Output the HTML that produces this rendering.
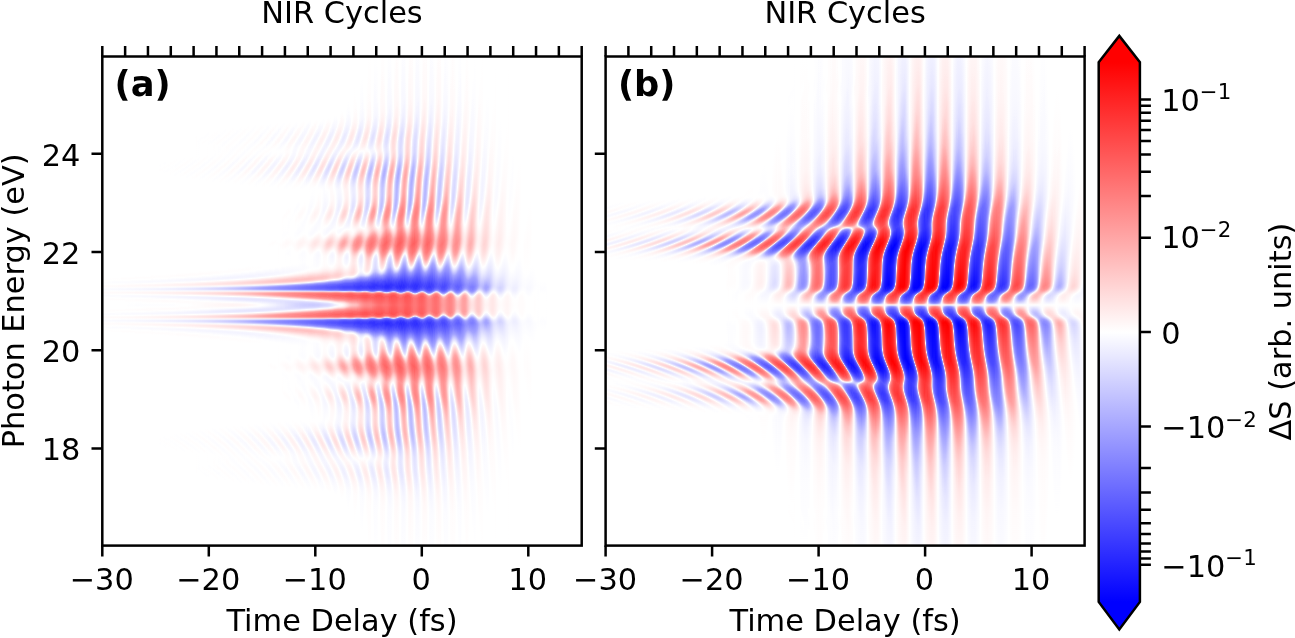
<!DOCTYPE html><html><head><meta charset="utf-8"><title>Transient absorption figure</title><style>html,body{margin:0;padding:0;background:#fff}#w{position:relative;width:1295px;height:638px;overflow:hidden;background:#fff}.p{position:absolute;top:57px;width:479px;height:489px;display:flex;background:#fff;overflow:hidden}.p *{display:block;position:relative;flex:0 0 1px;width:1px;height:489px;--g:#fff 0,#fff 9q}.p b{flex-basis:2px;width:2px}.p u{flex-basis:3px;width:3px}.p s{flex-basis:4px;width:4px}.p *::before{content:"";position:absolute;left:0;top:0;width:100%;height:248px;background:linear-gradient(to top,var(--g))}.p *::after{content:"";position:absolute;left:0;top:248px;width:100%;height:241px;background:linear-gradient(var(--g))}#pb *::after{filter:url(#sw)}.o{position:absolute;width:479px}</style></head><body><div id="w"><svg width="0" height="0" style="position:absolute"><filter id="sw" color-interpolation-filters="sRGB" x="0" y="0" width="1" height="1"><feColorMatrix type="matrix" values="0 0 1 0 0 0 1 0 0 0 1 0 0 0 0 0 0 0 1 0"/></filter></svg><div class="p" id="pa" style="left:103px"><u style="--g:#fff 0,#fff 5q,#fffefe 6q,#fff 8q,#fcfcff 10q,#fefeff 11q,#fffbfb 13q,#fff 15q,#fbfbff 16q,#fbfbff 17q,#fff 18q,#fffbfb 20q,#fff 22q,#fdfdff 23q,#fff 25q,#fffefe 27q,#fff 28q,#fff 263q"></u><b style="--g:#fff 0,#fff 5q,#fffdfd 6q,#fff 8q,#fcfcff 10q,#fefeff 11q,#fffbfb 13q,#fff 15q,#fbfbff 16q,#fbfbff 17q,#fefeff 18q,#fffbfb 20q,#fff 22q,#fdfdff 24q,#fff 25q,#fffefe 27q,#fff 29q,#fff 263q"></b><b style="--g:#fff 0,#fff 5q,#fffdfd 6q,#fff 8q,#fcfcff 10q,#fefeff 11q,#fffbfb 13q,#fff 15q,#fbfbff 16q,#fbfbff 17q,#fefeff 18q,#fffbfb 20q,#fff 22q,#fdfdff 24q,#fff 26q,#fffefe 27q,#fff 29q,#fff 263q"></b><b style="--g:#fff 0,#fff 4q,#fffdfd 6q,#fff 8q,#fcfcff 9q,#fcfcff 10q,#fff 11q,#fffafa 13q,#fff 15q,#fbfbff 16q,#fafaff 17q,#fefeff 18q,#fffbfb 20q,#fff 22q,#fdfdff 24q,#fff 26q,#fffefe 27q,#fff 29q,#fff 263q"></b><u style="--g:#fff 0,#fff 4q,#fffdfd 6q,#fff 8q,#fcfcff 9q,#fcfcff 10q,#fff 11q,#fffafa 13q,#fff 15q,#fafaff 16q,#fafaff 17q,#fefeff 18q,#fffbfb 20q,#fff 22q,#fcfcff 24q,#fff 26q,#fffefe 28q,#fff 29q,#fff 263q"></u><u style="--g:#fff 0,#fff 4q,#fffdfd 6q,#fff 7q,#fcfcff 10q,#fff 11q,#fffafa 13q,#fff 15q,#fafaff 16q,#fafaff 17q,#fdfdff 18q,#fffbfb 20q,#fff 22q,#fcfcff 24q,#fff 26q,#fffefe 28q,#fff 29q,#fff 263q"></u><u style="--g:#fff 0,#fff 4q,#fffdfd 6q,#fff 7q,#fcfcff 10q,#fff 11q,#fffafa 13q,#fefeff 15q,#fafaff 16q,#f9f9ff 17q,#fdfdff 18q,#fffafa 20q,#fffcfc 21q,#fff 22q,#fcfcff 24q,#fff 26q,#fffefe 28q,#fff 29q,#fff 263q"></u><s style="--g:#fff 0,#fff 4q,#fffdfd 6q,#fff 7q,#fbfbff 9q,#fcfcff 10q,#fff 11q,#fff9f9 13q,#fefeff 15q,#f9f9ff 16q,#f9f9ff 17q,#fdfdff 18q,#fffafa 20q,#fffbfb 21q,#fff 22q,#fcfcff 24q,#fff 26q,#fffdfd 28q,#fff 30q,#fff 263q"></s><b style="--g:#fff 0,#fff 3q,#fffdfd 5q,#fff 7q,#fbfbff 9q,#fbfbff 10q,#fff 11q,#fff9f9 13q,#fefeff 15q,#f9f9ff 16q,#f9f9ff 17q,#fdfdff 18q,#fffcfc 19q,#fffafa 20q,#fffbfb 21q,#fffefe 22q,#fcfcff 24q,#fff 26q,#fffdfd 28q,#fff 30q,#fff 263q"></b><s style="--g:#fefeff 0,#fff 3q,#fffdfd 5q,#fff 7q,#fbfbff 9q,#fbfbff 10q,#fff 11q,#fff8f8 13q,#fefeff 15q,#f9f9ff 16q,#f8f8ff 17q,#fcfcff 18q,#fffcfc 19q,#fffafa 20q,#fffafa 21q,#fffefe 22q,#fcfcff 24q,#fff 26q,#fffdfd 28q,#fff 30q,#fff 263q"></s><s style="--g:#fefeff 0,#fff 3q,#fffdfd 5q,#fff 7q,#fafaff 9q,#fbfbff 10q,#fff 11q,#fff8f8 13q,#fefeff 15q,#f8f8ff 16q,#f8f8ff 17q,#fcfcff 18q,#fffdfd 19q,#fff9f9 20q,#fffafa 21q,#fffdfd 22q,#fdfdff 23q,#fcfcff 25q,#fff 27q,#fffdfd 28q,#fff 30q,#fff 263q"></s><s style="--g:#fdfdff 0,#fff 3q,#fffcfc 5q,#fff 7q,#fafaff 9q,#fbfbff 10q,#fff 11q,#fffafa 12q,#fff7f7 13q,#fffafa 14q,#fdfdff 15q,#f8f8ff 16q,#f7f7ff 17q,#fbfbff 18q,#fffdfd 19q,#fff9f9 20q,#fff9f9 21q,#fffdfd 22q,#fefeff 23q,#fbfbff 24q,#fcfcff 25q,#fff 27q,#fffdfd 29q,#fff 31q,#fff 263q"></s><u style="--g:#fdfdff 0,#fff 3q,#fffcfc 5q,#fff 7q,#fafaff 9q,#fbfbff 10q,#fff 11q,#fff9f9 12q,#fff7f7 13q,#fffafa 14q,#fdfdff 15q,#f7f7ff 16q,#f6f6ff 17q,#fbfbff 18q,#fffdfd 19q,#fff9f9 20q,#fff9f9 21q,#fefeff 23q,#fbfbff 24q,#fbfbff 25q,#fff 27q,#fffdfd 29q,#fff 31q,#fff 263q"></u><b style="--g:#fdfdff 0,#fff 2q,#fffcfc 5q,#fff 7q,#f9f9ff 9q,#fbfbff 10q,#fff 11q,#fff9f9 12q,#fff6f6 13q,#fff9f9 14q,#fdfdff 15q,#f7f7ff 16q,#f6f6ff 17q,#fffdfd 19q,#fff8f8 20q,#fff8f8 21q,#fff 23q,#fbfbff 24q,#fbfbff 25q,#fff 27q,#fffdfd 29q,#fff 31q,#fff 263q"></b><b style="--g:#fdfdff 0,#fff 2q,#fffcfc 5q,#fff 7q,#fbfbff 8q,#f9f9ff 9q,#fbfbff 10q,#fff 11q,#fff8f8 12q,#fff6f6 13q,#fff9f9 14q,#fdfdff 15q,#f7f7ff 16q,#f5f5ff 17q,#fffdfd 19q,#fff8f8 20q,#fff8f8 21q,#fff 23q,#fbfbff 24q,#fbfbff 25q,#fff 27q,#fffdfd 29q,#fff 31q,#fff 263q"></b><b style="--g:#fdfdff 0,#fff 2q,#fffcfc 4q,#fffdfd 6q,#fefeff 7q,#f9f9ff 9q,#fbfbff 10q,#fffefe 11q,#fff8f8 12q,#fff6f6 13q,#fff9f9 14q,#fdfdff 15q,#f6f6ff 16q,#f5f5ff 17q,#fffdfd 19q,#fff8f8 20q,#fff8f8 21q,#fff 23q,#fbfbff 24q,#fbfbff 25q,#fff 27q,#fffdfd 29q,#fff 31q,#fff 263q"></b><u style="--g:#fdfdff 0,#fff 2q,#fffcfc 4q,#fffdfd 6q,#fefeff 7q,#f9f9ff 9q,#fffefe 11q,#fff8f8 12q,#fff5f5 13q,#fff9f9 14q,#fdfdff 15q,#f6f6ff 16q,#f4f4ff 17q,#fffdfd 19q,#fff8f8 20q,#fff7f7 21q,#fff 23q,#fbfbff 24q,#fafaff 25q,#fff 27q,#fffdfd 29q,#fff 31q,#fff 263q"></u><b style="--g:#fdfdff 0,#fff 2q,#fffcfc 4q,#fffdfd 6q,#fdfdff 7q,#f8f8ff 9q,#fffdfd 11q,#fff7f7 12q,#fff5f5 13q,#fff8f8 14q,#fdfdff 15q,#f5f5ff 16q,#f4f4ff 17q,#fffdfd 19q,#fff8f8 20q,#fff7f7 21q,#fff 23q,#fbfbff 24q,#fafaff 25q,#fffefe 28q,#fffdfd 30q,#fff 32q,#fff 263q"></b><b style="--g:#fdfdff 0,#fff 2q,#fffcfc 4q,#fffefe 6q,#fdfdff 7q,#f8f8ff 9q,#fbfbff 10q,#fffdfd 11q,#fff7f7 12q,#fff4f4 13q,#fff8f8 14q,#fdfdff 15q,#f5f5ff 16q,#f3f3ff 17q,#fffdfd 19q,#fff8f8 20q,#fff6f6 21q,#fff 23q,#fafaff 25q,#fff 28q,#fffdfd 29q,#fff 32q,#fff 263q"></b><b style="--g:#fdfdff 0,#fff 2q,#fffcfc 4q,#fffefe 6q,#f8f8ff 9q,#fbfbff 10q,#fffdfd 11q,#fff6f6 12q,#fff4f4 13q,#fff8f8 14q,#fdfdff 15q,#f5f5ff 16q,#f3f3ff 17q,#fffefe 19q,#fff7f7 20q,#fff6f6 21q,#fff9f9 22q,#fff 23q,#fafaff 25q,#fff 28q,#fffdfd 30q,#fff 32q,#fff 263q"></b><b style="--g:#fdfdff 0,#fff 2q,#fffcfc 4q,#fffefe 6q,#f9f9ff 8q,#f8f8ff 9q,#fbfbff 10q,#fffdfd 11q,#fff6f6 12q,#fff3f3 13q,#fff8f8 14q,#fdfdff 15q,#f4f4ff 16q,#f2f2ff 17q,#fffefe 19q,#fff7f7 20q,#fff6f6 21q,#fff9f9 22q,#fffefe 23q,#fafaff 25q,#fff 28q,#fffdfd 30q,#fff 32q,#fff 263q"></b><b style="--g:#fdfdff 0,#fff 2q,#fffcfc 4q,#fffcfc 5q,#fff 6q,#f9f9ff 8q,#f8f8ff 9q,#fbfbff 10q,#fffcfc 11q,#fff5f5 12q,#fff3f3 13q,#fff8f8 14q,#fdfdff 15q,#f4f4ff 16q,#f2f2ff 17q,#fff 19q,#fff7f7 20q,#fff5f5 21q,#fffefe 23q,#fafaff 25q,#fff 28q,#fffdfd 30q,#fff 32q,#fff 141q,#fffefe 142q,#fff 145q,#fefeff 147q,#fff 149q,#fff 263q"></b><b style="--g:#fdfdff 0,#fff 2q,#fffbfb 4q,#fffcfc 5q,#fff 6q,#f8f8ff 8q,#f8f8ff 9q,#fbfbff 10q,#fffcfc 11q,#fff5f5 12q,#fff2f2 13q,#fff7f7 14q,#fcfcff 15q,#f3f3ff 16q,#f1f1ff 17q,#f7f7ff 18q,#fff 19q,#fff7f7 20q,#fff5f5 21q,#fffdfd 23q,#fcfcff 24q,#fafaff 25q,#fafaff 26q,#fff 28q,#fffdfd 30q,#fff 32q,#fff 142q,#fffefe 144q,#fff 145q,#fff 263q"></b><b style="--g:#fdfdff 0,#fff 2q,#fffbfb 4q,#fffcfc 5q,#fff 6q,#f8f8ff 8q,#f7f7ff 9q,#fbfbff 10q,#fffcfc 11q,#fff4f4 12q,#fff2f2 13q,#fff7f7 14q,#fcfcff 15q,#f3f3ff 16q,#f1f1ff 17q,#f6f6ff 18q,#fff 19q,#fff7f7 20q,#fff4f4 21q,#fff7f7 22q,#fffdfd 23q,#fcfcff 24q,#fafaff 25q,#fafaff 26q,#fff 28q,#fffdfd 30q,#fff 32q,#fff 139q,#fefeff 140q,#fff 143q,#fffefe 145q,#fff 147q,#fefeff 150q,#fff 151q,#fff 263q"></b><i style="--g:#fdfdff 0,#fff 2q,#fffbfb 4q,#fffcfc 5q,#fff 6q,#f8f8ff 8q,#f7f7ff 9q,#fbfbff 10q,#fffbfb 11q,#fff4f4 12q,#fff1f1 13q,#fff7f7 14q,#fcfcff 15q,#f3f3ff 16q,#f0f0ff 17q,#f6f6ff 18q,#fff 19q,#fff7f7 20q,#fff4f4 21q,#fff7f7 22q,#fffcfc 23q,#fcfcff 24q,#fafaff 25q,#fafaff 26q,#fff 28q,#fffdfd 30q,#fff 33q,#fff 140q,#fefeff 141q,#fff 144q,#fffefe 146q,#fff 147q,#fefeff 151q,#fff 152q,#fff 263q"></i><b style="--g:#fdfdff 0,#fff 2q,#fffbfb 4q,#fffcfc 5q,#fff 6q,#f8f8ff 8q,#f7f7ff 9q,#fbfbff 10q,#fffbfb 11q,#fff3f3 12q,#fff1f1 13q,#fff7f7 14q,#fcfcff 15q,#f2f2ff 16q,#f0f0ff 17q,#f5f5ff 18q,#fff 19q,#fff7f7 20q,#fff4f4 21q,#fff6f6 22q,#fffcfc 23q,#fdfdff 24q,#fafaff 25q,#fafaff 26q,#fff 28q,#fffdfd 30q,#fff 33q,#fff 140q,#fefeff 142q,#fff 145q,#fffefe 147q,#fff 149q,#fff 263q"></b><b style="--g:#fdfdff 0,#fff 2q,#fffbfb 4q,#fff 6q,#f7f7ff 8q,#f7f7ff 9q,#fbfbff 10q,#fffbfb 11q,#fff3f3 12q,#fff1f1 13q,#fff6f6 14q,#fcfcff 15q,#f2f2ff 16q,#efefff 17q,#f5f5ff 18q,#fff 19q,#fff7f7 20q,#fff3f3 21q,#fff6f6 22q,#fffcfc 23q,#fdfdff 24q,#fafaff 25q,#f9f9ff 26q,#fefeff 28q,#fffdfd 30q,#fff 33q,#fff 141q,#fefeff 143q,#fff 145q,#fffefe 148q,#fff 150q,#fff 263q"></b><i style="--g:#fdfdff 0,#fff 2q,#fffbfb 4q,#fff 6q,#f7f7ff 8q,#f7f7ff 9q,#fcfcff 10q,#fffafa 11q,#fff2f2 12q,#fff0f0 13q,#fff6f6 14q,#fcfcff 15q,#f1f1ff 16q,#eef 17q,#f4f4ff 18q,#fff 19q,#fff7f7 20q,#fff3f3 21q,#fff6f6 22q,#fffbfb 23q,#fdfdff 24q,#fafaff 25q,#f9f9ff 26q,#fefeff 28q,#fffefe 29q,#fffdfd 31q,#fff 33q,#fff 138q,#fffefe 139q,#fff 143q,#fefeff 144q,#fff 146q,#fffefe 149q,#fff 151q,#fff 263q"></i><b style="--g:#fdfdff 0,#fff 2q,#fffbfb 4q,#fff 6q,#f7f7ff 8q,#f7f7ff 9q,#fcfcff 10q,#fffafa 11q,#fff2f2 12q,#fff0f0 13q,#fff6f6 14q,#fcfcff 15q,#f1f1ff 16q,#eef 17q,#f4f4ff 18q,#fff 19q,#fff7f7 20q,#fff3f3 21q,#fff5f5 22q,#fffbfb 23q,#fdfdff 24q,#fafaff 25q,#f9f9ff 26q,#fff 29q,#fffdfd 30q,#fffdfd 31q,#fff 33q,#fff 139q,#fffefe 140q,#fff 143q,#fefeff 145q,#fff 148q,#fffefe 151q,#fff 152q,#fff 263q"></b><i style="--g:#fdfdff 0,#fff 2q,#fffbfb 4q,#fff 6q,#f6f6ff 8q,#f7f7ff 9q,#fcfcff 10q,#fff9f9 11q,#fff1f1 12q,#ffefef 13q,#fff6f6 14q,#fcfcff 15q,#f1f1ff 16q,#ededff 17q,#f3f3ff 18q,#fefeff 19q,#fff7f7 20q,#fff3f3 21q,#fff5f5 22q,#fffafa 23q,#fefeff 24q,#fafaff 25q,#f9f9ff 26q,#fff 29q,#fffdfd 31q,#fff 33q,#fff 140q,#fffefe 141q,#fff 145q,#fefeff 147q,#fff 148q,#fffefe 152q,#fff 153q,#fff 263q"></i><i style="--g:#fdfdff 0,#fff 2q,#fffbfb 4q,#fff 6q,#f6f6ff 8q,#f7f7ff 9q,#fcfcff 10q,#fff9f9 11q,#fff1f1 12q,#ffefef 13q,#fff6f6 14q,#fcfcff 15q,#f0f0ff 16q,#ededff 17q,#f3f3ff 18q,#fefeff 19q,#fff7f7 20q,#fff2f2 21q,#fff4f4 22q,#fefeff 24q,#fafaff 25q,#f9f9ff 26q,#fff 29q,#fffdfd 31q,#fff 33q,#fff 136q,#fefeff 137q,#fff 140q,#fffefe 142q,#fff 145q,#fefeff 147q,#fff 149q,#fffefe 152q,#fff 154q,#fff 263q"></i><i style="--g:#fefeff 0,#fff 2q,#fffcfc 3q,#fffdfd 5q,#fefeff 6q,#f6f6ff 8q,#f7f7ff 9q,#fcfcff 10q,#fff9f9 11q,#fff1f1 12q,#ffefef 13q,#fff6f6 14q,#fcfcff 15q,#f0f0ff 16q,#ededff 17q,#f3f3ff 18q,#fefeff 19q,#fff7f7 20q,#fff2f2 21q,#fff4f4 22q,#fefeff 24q,#fafaff 25q,#f9f9ff 26q,#fff 29q,#fffdfd 31q,#fff 33q,#fff 136q,#fefeff 138q,#fff 141q,#fffdfd 143q,#fff 145q,#fdfdff 148q,#fff 150q,#fffefe 153q,#fff 154q,#fff 263q"></i><i style="--g:#fefeff 0,#fff 1q,#fffbfb 4q,#fffdfd 5q,#fefeff 6q,#f6f6ff 8q,#f6f6ff 9q,#fcfcff 10q,#fff9f9 11q,#fff0f0 12q,#fee 13q,#fff5f5 14q,#fcfcff 15q,#f0f0ff 16q,#ececff 17q,#f2f2ff 18q,#fdfdff 19q,#fff7f7 20q,#fff2f2 21q,#fff4f4 22q,#fff 24q,#fafaff 25q,#f8f8ff 26q,#fff 29q,#fffcfc 31q,#fff 33q,#fff 137q,#fefeff 138q,#fff 142q,#fffdfd 144q,#fff 146q,#fefeff 149q,#fff 151q,#fffefe 154q,#fff 155q,#fff 263q"></i><i style="--g:#fefeff 0,#fff 1q,#fffbfb 4q,#fffdfd 5q,#fdfdff 6q,#f6f6ff 8q,#f6f6ff 9q,#fcfcff 10q,#fff8f8 11q,#fff0f0 12q,#fee 13q,#fff5f5 14q,#fbfbff 15q,#f0f0ff 16q,#ececff 17q,#f2f2ff 18q,#fdfdff 19q,#fff7f7 20q,#fff2f2 21q,#fff3f3 22q,#fff 24q,#fafaff 25q,#f8f8ff 26q,#fff 29q,#fffcfc 31q,#fff 34q,#fff 137q,#fefeff 139q,#fff 142q,#fffdfd 144q,#fff 146q,#fefeff 149q,#fff 151q,#fff 263q"></i><i style="--g:#fefeff 0,#fff 1q,#fffbfb 4q,#fffdfd 5q,#fdfdff 6q,#f5f5ff 8q,#f6f6ff 9q,#fcfcff 10q,#fff8f8 11q,#fff0f0 12q,#fee 13q,#fff5f5 14q,#fbfbff 15q,#efefff 16q,#ebebff 17q,#f1f1ff 18q,#fdfdff 19q,#fff7f7 20q,#fff2f2 21q,#fff3f3 22q,#fff 24q,#fafaff 25q,#f8f8ff 26q,#fff 29q,#fffcfc 31q,#fff 34q,#fff 138q,#fefeff 140q,#fff 143q,#fffdfd 145q,#fff 147q,#fefeff 150q,#fff 152q,#fff 263q"></i><i style="--g:#fff 0,#fffcfc 4q,#fffdfd 5q,#fdfdff 6q,#f5f5ff 8q,#f6f6ff 9q,#fdfdff 10q,#fff8f8 11q,#ffefef 12q,#ffeded 13q,#fff5f5 14q,#fbfbff 15q,#efefff 16q,#ebebff 17q,#f1f1ff 18q,#fdfdff 19q,#fff7f7 20q,#fff1f1 21q,#fff3f3 22q,#fff 24q,#fafaff 25q,#f8f8ff 26q,#fff 29q,#fffcfc 31q,#fff 34q,#fff 139q,#fefeff 141q,#fff 144q,#fffdfd 146q,#fff 148q,#fefeff 151q,#fff 153q,#fff 263q"></i><i style="--g:#fff 0,#fff 1q,#fffcfc 3q,#fffdfd 5q,#fdfdff 6q,#f5f5ff 8q,#f6f6ff 9q,#fdfdff 10q,#fff7f7 11q,#ffefef 12q,#ffeded 13q,#fff5f5 14q,#fbfbff 15q,#efefff 16q,#ebebff 17q,#f1f1ff 18q,#fcfcff 19q,#fff7f7 20q,#fff1f1 21q,#fff2f2 22q,#fff 24q,#fafaff 25q,#f8f8ff 26q,#f9f9ff 27q,#fff 29q,#fffcfc 31q,#fff 34q,#fff 135q,#fffefe 136q,#fff 139q,#fdfdff 141q,#fff 144q,#fffdfd 146q,#fff 149q,#fefeff 152q,#fff 153q,#fff 263q"></i><i style="--g:#fff 0,#fff 1q,#fffcfc 3q,#fffefe 5q,#fdfdff 6q,#f5f5ff 8q,#f6f6ff 9q,#fdfdff 10q,#fff7f7 11q,#ffefef 12q,#ffeded 13q,#fff5f5 14q,#fbfbff 15q,#eef 16q,#eaeaff 17q,#f0f0ff 18q,#fcfcff 19q,#fff7f7 20q,#fff1f1 21q,#fff2f2 22q,#fff 24q,#fafaff 25q,#f8f8ff 26q,#f9f9ff 27q,#fff 29q,#fffcfc 31q,#fff 34q,#fff 135q,#fffefe 137q,#fff 140q,#fdfdff 142q,#fff 145q,#fffdfd 147q,#fff 149q,#fefeff 152q,#fff 154q,#fff 263q"></i><i style="--g:#fff 0,#fff 1q,#fffcfc 3q,#fffefe 5q,#fcfcff 6q,#f5f5ff 8q,#f6f6ff 9q,#fdfdff 10q,#fff7f7 11q,#fee 12q,#ffecec 13q,#fff4f4 14q,#fbfbff 15q,#eef 16q,#eaeaff 17q,#f0f0ff 18q,#fcfcff 19q,#fff7f7 20q,#fff1f1 21q,#fff2f2 22q,#fff 24q,#fafaff 25q,#f8f8ff 26q,#f9f9ff 27q,#fff 29q,#fffcfc 31q,#fff 34q,#fff 136q,#fffefe 137q,#fff 141q,#fdfdff 143q,#fff 145q,#fffdfd 148q,#fff 150q,#fefeff 153q,#fff 155q,#fff 263q"></i><i style="--g:#fff 0,#fff 1q,#fffcfc 3q,#fffefe 5q,#fcfcff 6q,#f5f5ff 8q,#f6f6ff 9q,#fdfdff 10q,#fee 12q,#ffecec 13q,#fff4f4 14q,#fbfbff 15q,#eef 16q,#e9e9ff 17q,#efefff 18q,#fcfcff 19q,#fff7f7 20q,#fff1f1 21q,#fff1f1 22q,#fff 24q,#fafaff 25q,#f8f8ff 26q,#f9f9ff 27q,#fff 29q,#fffcfc 31q,#fff 34q,#fff 136q,#fffefe 138q,#fff 141q,#fdfdff 143q,#fff 146q,#fffdfd 149q,#fff 151q,#fefeff 154q,#fff 155q,#fff 263q"></i><i style="--g:#fff 0,#fff 1q,#fffcfc 3q,#fffcfc 4q,#fff 5q,#f4f4ff 8q,#f6f6ff 9q,#fdfdff 10q,#ffeded 12q,#ffecec 13q,#fff4f4 14q,#fbfbff 15q,#ededff 16q,#e9e9ff 17q,#efefff 18q,#fbfbff 19q,#fff7f7 20q,#fff0f0 21q,#fff1f1 22q,#fffefe 24q,#f8f8ff 26q,#f8f8ff 27q,#fff 29q,#fffcfc 31q,#fff 34q,#fff 137q,#fffdfd 139q,#fff 142q,#fdfdff 144q,#fff 146q,#fffdfd 149q,#fff 152q,#fefeff 155q,#fff 156q,#fff 263q"></i><i style="--g:#fff 0,#fff 1q,#fffcfc 3q,#fffcfc 4q,#fff 5q,#f4f4ff 8q,#f6f6ff 9q,#fefeff 10q,#ffeded 12q,#ffebeb 13q,#fff4f4 14q,#fbfbff 15q,#ededff 16q,#e8e8ff 17q,#efefff 18q,#fbfbff 19q,#fff7f7 20q,#fff0f0 21q,#fff1f1 22q,#fffefe 24q,#f8f8ff 26q,#f8f8ff 27q,#fefeff 29q,#fffefe 30q,#fffcfc 32q,#fff 34q,#fff 137q,#fffdfd 140q,#fff 143q,#fdfdff 145q,#fff 147q,#fffdfd 150q,#fff 152q,#fff 263q"></i><i style="--g:#fff 0,#fff 1q,#fffcfc 3q,#fffcfc 4q,#fff 5q,#f4f4ff 8q,#f6f6ff 9q,#fefeff 10q,#ffecec 12q,#ffebeb 13q,#fff4f4 14q,#fbfbff 15q,#ededff 16q,#e8e8ff 17q,#eef 18q,#fbfbff 19q,#fff7f7 20q,#fff0f0 21q,#fff0f0 22q,#fffdfd 24q,#f8f8ff 26q,#f8f8ff 27q,#fefeff 29q,#fffefe 30q,#fffcfc 32q,#fff 34q,#fff 134q,#fefeff 135q,#fff 138q,#fffdfd 140q,#fff 143q,#fdfdff 146q,#fff 148q,#fffdfd 151q,#fff 153q,#fff 263q"></i><i style="--g:#fff 0,#fff 1q,#fffcfc 3q,#fffcfc 4q,#fff 5q,#f6f6ff 7q,#f4f4ff 8q,#f6f6ff 9q,#fefeff 10q,#ffecec 12q,#ffebeb 13q,#fff4f4 14q,#fbfbff 15q,#ececff 16q,#e8e8ff 17q,#eef 18q,#fafaff 19q,#fff7f7 20q,#fff0f0 21q,#fff0f0 22q,#fffdfd 24q,#f8f8ff 26q,#f8f8ff 27q,#fdfdff 29q,#fffefe 30q,#fffcfc 32q,#fff 34q,#fff 134q,#fefeff 136q,#fff 139q,#fffdfd 141q,#fff 144q,#fdfdff 146q,#fff 149q,#fffdfd 152q,#fff 154q,#fff 263q"></i><i style="--g:#fff 0,#fffcfc 3q,#fffcfc 4q,#fff 5q,#f6f6ff 7q,#f4f4ff 8q,#f6f6ff 9q,#fff 10q,#ffecec 12q,#ffeaea 13q,#fff3f3 14q,#fbfbff 15q,#ececff 16q,#e7e7ff 17q,#ededff 18q,#fafaff 19q,#fff7f7 20q,#fff0f0 21q,#fff0f0 22q,#fffdfd 24q,#fbfbff 25q,#f8f8ff 26q,#f8f8ff 27q,#fff 30q,#fffcfc 32q,#fff 34q,#fff 135q,#fefeff 136q,#fff 139q,#fffdfd 142q,#fff 145q,#fdfdff 147q,#fff 150q,#fffefe 153q,#fff 154q,#fff 263q"></i><i style="--g:#fff 0,#fffcfc 3q,#fff 5q,#f6f6ff 7q,#f3f3ff 8q,#f6f6ff 9q,#fff 10q,#ffebeb 12q,#ffeaea 13q,#fff3f3 14q,#fafaff 15q,#ececff 16q,#e7e7ff 17q,#ededff 18q,#fafaff 19q,#fff7f7 20q,#fff0f0 21q,#ffefef 22q,#fffcfc 24q,#fbfbff 25q,#f8f8ff 26q,#f8f8ff 27q,#fff 30q,#fffcfc 32q,#fff 35q,#fff 135q,#fefeff 137q,#fff 140q,#fffdfd 143q,#fff 146q,#fdfdff 148q,#fff 150q,#fffefe 153q,#fff 155q,#fff 263q"></i><i style="--g:#fff 0,#fffcfc 3q,#fff 5q,#f5f5ff 7q,#f3f3ff 8q,#f6f6ff 9q,#fff 10q,#ffebeb 12q,#ffeaea 13q,#fff3f3 14q,#fafaff 15q,#ebebff 16q,#e6e6ff 17q,#ececff 18q,#f9f9ff 19q,#fff7f7 20q,#ffefef 21q,#ffefef 22q,#fffcfc 24q,#fbfbff 25q,#f8f8ff 26q,#f8f8ff 27q,#fff 30q,#fffcfc 32q,#fff 35q,#fff 136q,#fdfdff 138q,#fff 141q,#fffdfd 143q,#fff 146q,#fdfdff 149q,#fff 151q,#fffefe 154q,#fff 156q,#fff 263q"></i><i style="--g:#fffefe 0,#fffcfc 3q,#fff 5q,#f5f5ff 7q,#f3f3ff 8q,#f6f6ff 9q,#fff 10q,#ffeaea 12q,#ffe9e9 13q,#fff3f3 14q,#fafaff 15q,#ebebff 16q,#e6e6ff 17q,#ececff 18q,#f9f9ff 19q,#fff7f7 20q,#ffefef 21q,#ffefef 22q,#fffcfc 24q,#fcfcff 25q,#f8f8ff 26q,#f7f7ff 27q,#fff 30q,#fffcfc 32q,#fff 35q,#fff 136q,#fdfdff 139q,#fff 142q,#fffdfd 144q,#fff 146q,#fdfdff 149q,#fff 152q,#fffefe 155q,#fff 156q,#fff 263q"></i><i style="--g:#fffefe 0,#fffcfc 3q,#fff 5q,#f5f5ff 7q,#f3f3ff 8q,#f6f6ff 9q,#fff 10q,#ffeaea 12q,#ffe9e9 13q,#fff3f3 14q,#fafaff 15q,#ebebff 16q,#e5e5ff 17q,#ebebff 18q,#f9f9ff 19q,#fff7f7 20q,#ffefef 21q,#fee 22q,#fffbfb 24q,#fcfcff 25q,#f8f8ff 26q,#f7f7ff 27q,#fff 30q,#fffcfc 32q,#fff 35q,#fff 133q,#fffefe 134q,#fff 137q,#fdfdff 139q,#fff 142q,#fffdfd 145q,#fff 147q,#fdfdff 150q,#fff 153q,#fffefe 156q,#fff 157q,#fff 263q"></i><i style="--g:#fffdfd 0,#fffcfc 3q,#fefeff 5q,#f4f4ff 7q,#f3f3ff 8q,#f6f6ff 9q,#fff 10q,#fff3f3 11q,#ffe9e9 12q,#ffe8e8 13q,#fff3f3 14q,#fafaff 15q,#eaeaff 16q,#e4e4ff 17q,#ebebff 18q,#f8f8ff 19q,#fff7f7 20q,#ffefef 21q,#fee 22q,#fffbfb 24q,#fcfcff 25q,#f8f8ff 26q,#f7f7ff 27q,#fff 30q,#fffcfc 32q,#fff 35q,#fff 133q,#fffefe 134q,#fff 138q,#fdfdff 140q,#fff 143q,#fffdfd 146q,#fff 148q,#fdfdff 151q,#fff 153q,#fff 263q"></i><i style="--g:#fffdfd 0,#fffcfc 3q,#fefeff 5q,#f4f4ff 7q,#f3f3ff 8q,#f6f6ff 9q,#fff 10q,#fff2f2 11q,#ffe9e9 12q,#ffe8e8 13q,#fff2f2 14q,#fafaff 15q,#eaeaff 16q,#e4e4ff 17q,#eaeaff 18q,#f8f8ff 19q,#fff8f8 20q,#ffefef 21q,#fee 22q,#fffbfb 24q,#fcfcff 25q,#f8f8ff 26q,#f7f7ff 27q,#fff 30q,#fffcfc 32q,#fff 35q,#fff 133q,#fffefe 135q,#fff 138q,#fdfdff 141q,#fff 144q,#fffdfd 146q,#fff 149q,#fdfdff 152q,#fff 154q,#fff 263q"></i><i style="--g:#fffdfd 0,#fffcfc 3q,#fdfdff 5q,#f4f4ff 7q,#f2f2ff 8q,#f6f6ff 9q,#fff 10q,#fff2f2 11q,#ffe8e8 12q,#ffe8e8 13q,#fff2f2 14q,#fafaff 15q,#eaeaff 16q,#e3e3ff 17q,#eaeaff 18q,#f8f8ff 19q,#fff8f8 20q,#ffefef 21q,#ffeded 22q,#fff2f2 23q,#fffafa 24q,#fcfcff 25q,#f8f8ff 26q,#f7f7ff 27q,#fff 30q,#fffcfc 32q,#fff 35q,#fff 134q,#fffefe 136q,#fff 139q,#fdfdff 142q,#fff 145q,#fffdfd 147q,#fff 150q,#fdfdff 153q,#fff 155q,#fff 176q,#fffefe 177q,#fff 178q,#fff 263q"></i><i style="--g:#fffdfd 0,#fffcfc 3q,#fdfdff 5q,#f4f4ff 7q,#f2f2ff 8q,#f6f6ff 9q,#fffefe 10q,#ffe8e8 12q,#ffe7e7 13q,#fff2f2 14q,#fafaff 15q,#e9e9ff 16q,#e3e3ff 17q,#e9e9ff 18q,#f7f7ff 19q,#fff8f8 20q,#fee 21q,#ffeded 22q,#fff2f2 23q,#fffafa 24q,#fdfdff 25q,#f8f8ff 26q,#f7f7ff 27q,#fff 30q,#fffcfc 32q,#fff 35q,#fff 134q,#fffdfd 137q,#fff 140q,#fdfdff 142q,#fff 145q,#fffdfd 148q,#fff 150q,#fefeff 153q,#fff 155q,#fffefe 178q,#fff 179q,#fff 263q"></i><i style="--g:#fffcfc 0,#fffcfc 3q,#fffdfd 4q,#fdfdff 5q,#f3f3ff 7q,#f2f2ff 8q,#f6f6ff 9q,#fffefe 10q,#fff1f1 11q,#ffe7e7 12q,#ffe7e7 13q,#fff2f2 14q,#fafaff 15q,#e9e9ff 16q,#e2e2ff 17q,#e8e8ff 18q,#f7f7ff 19q,#fff8f8 20q,#fee 21q,#ffecec 22q,#fff1f1 23q,#fff9f9 24q,#fdfdff 25q,#f8f8ff 26q,#f7f7ff 27q,#f8f8ff 28q,#fff 30q,#fffcfc 32q,#fff 35q,#fff 135q,#fffdfd 137q,#fff 140q,#fdfdff 143q,#fff 146q,#fffdfd 149q,#fff 151q,#fefeff 154q,#fff 156q,#fff 172q,#fefeff 173q,#fff 174q,#fff 263q"></i><i style="--g:#fffcfc 0,#fffcfc 3q,#fffefe 4q,#fcfcff 5q,#f3f3ff 7q,#f2f2ff 8q,#f6f6ff 9q,#fffdfd 10q,#fff0f0 11q,#ffe7e7 12q,#ffe6e6 13q,#fff2f2 14q,#fafaff 15q,#e8e8ff 16q,#e2e2ff 17q,#e8e8ff 18q,#f6f6ff 19q,#fff8f8 20q,#fee 21q,#ffecec 22q,#fff1f1 23q,#fff9f9 24q,#fdfdff 25q,#f8f8ff 26q,#f7f7ff 27q,#f8f8ff 28q,#fff 30q,#fffcfc 33q,#fff 35q,#fff 136q,#fffdfd 138q,#fff 141q,#fdfdff 144q,#fff 146q,#fffdfd 150q,#fff 152q,#fefeff 155q,#fff 157q,#fefeff 174q,#fff 175q,#fff 263q"></i><i style="--g:#fffcfc 0,#fffcfc 3q,#fffefe 4q,#fcfcff 5q,#f3f3ff 7q,#f2f2ff 8q,#f7f7ff 9q,#fffdfd 10q,#fff0f0 11q,#ffe6e6 12q,#ffe6e6 13q,#fff1f1 14q,#f9f9ff 15q,#e8e8ff 16q,#e1e1ff 17q,#e7e7ff 18q,#f6f6ff 19q,#fff8f8 20q,#fee 21q,#ffecec 22q,#fff0f0 23q,#fff8f8 24q,#fefeff 25q,#f8f8ff 26q,#f6f6ff 27q,#fefeff 30q,#fffefe 31q,#fffcfc 33q,#fff 36q,#fff 132q,#fefeff 133q,#fff 136q,#fffdfd 139q,#fff 142q,#fcfcff 145q,#fff 147q,#fffdfd 150q,#fff 153q,#fefeff 156q,#fff 157q,#fefeff 175q,#fff 176q,#fff 263q"></i><i style="--g:#fffcfc 0,#fffcfc 3q,#fff 4q,#f2f2ff 7q,#f2f2ff 8q,#f7f7ff 9q,#fffdfd 10q,#ffefef 11q,#ffe5e5 12q,#ffe5e5 13q,#fff1f1 14q,#f9f9ff 15q,#e8e8ff 16q,#e0e0ff 17q,#e7e7ff 18q,#f5f5ff 19q,#fff9f9 20q,#fee 21q,#ffebeb 22q,#fff0f0 23q,#fefeff 25q,#f8f8ff 26q,#f6f6ff 27q,#f7f7ff 28q,#fefeff 30q,#fffefe 31q,#fffcfc 33q,#fff 36q,#fff 132q,#fefeff 134q,#fff 137q,#fffdfd 140q,#fff 143q,#fcfcff 145q,#fff 148q,#fffdfd 151q,#fff 154q,#fff 174q,#fefeff 175q,#fff 177q,#fff 263q"></i><i style="--g:#fffbfb 0,#fffcfc 3q,#fff 4q,#f2f2ff 7q,#f1f1ff 8q,#f7f7ff 9q,#fffcfc 10q,#ffefef 11q,#ffe5e5 12q,#ffe5e5 13q,#fff1f1 14q,#f9f9ff 15q,#e7e7ff 16q,#e0e0ff 17q,#e6e6ff 18q,#f5f5ff 19q,#fff9f9 20q,#fee 21q,#ffebeb 22q,#ffefef 23q,#fff 25q,#f9f9ff 26q,#f6f6ff 27q,#fff 31q,#fffcfc 33q,#fff 36q,#fff 133q,#fefeff 135q,#fff 138q,#fffdfd 140q,#fff 144q,#fcfcff 146q,#fff 149q,#fffdfd 152q,#fff 154q,#fff 175q,#fefeff 176q,#fff 178q,#fff 263q"></i><i style="--g:#fffbfb 0,#fffcfc 3q,#fff 4q,#f2f2ff 7q,#f1f1ff 8q,#f7f7ff 9q,#fffcfc 10q,#fee 11q,#ffe4e4 12q,#ffe4e4 13q,#fff1f1 14q,#f9f9ff 15q,#e7e7ff 16q,#dfdfff 17q,#e5e5ff 18q,#f4f4ff 19q,#fff9f9 20q,#fee 21q,#ffebeb 22q,#ffefef 23q,#fff 25q,#f9f9ff 26q,#f6f6ff 27q,#f7f7ff 28q,#fff 31q,#fffcfc 33q,#fff 36q,#fff 133q,#fdfdff 135q,#fff 139q,#fffcfc 141q,#fff 144q,#fcfcff 147q,#fff 150q,#fffdfd 153q,#fff 155q,#fff 170q,#fffefe 171q,#fff 175q,#fefeff 177q,#fff 178q,#fff 263q"></i><i style="--g:#fffbfb 0,#fffcfc 3q,#fff 4q,#f1f1ff 7q,#f1f1ff 8q,#f7f7ff 9q,#fffcfc 10q,#fee 11q,#ffe4e4 12q,#ffe4e4 13q,#fff1f1 14q,#f9f9ff 15q,#e6e6ff 16q,#dfdfff 17q,#e5e5ff 18q,#f4f4ff 19q,#fff9f9 20q,#fee 21q,#ffeaea 22q,#fee 23q,#fff 25q,#f9f9ff 26q,#f6f6ff 27q,#f7f7ff 28q,#fff 31q,#fffcfc 33q,#fff 36q,#fff 134q,#fdfdff 136q,#fff 139q,#fffcfc 142q,#fff 145q,#fcfcff 148q,#fff 151q,#fffdfd 154q,#fff 156q,#fff 171q,#fffefe 172q,#fff 176q,#fefeff 178q,#fff 179q,#fff 263q"></i><i style="--g:#fffafa 0,#fffbfb 2q,#fff 4q,#f1f1ff 7q,#f1f1ff 8q,#f7f7ff 9q,#fffbfb 10q,#ffeded 11q,#ffe3e3 12q,#ffe3e3 13q,#fff0f0 14q,#f9f9ff 15q,#e6e6ff 16q,#dedeff 17q,#e4e4ff 18q,#f3f3ff 19q,#fff9f9 20q,#fee 21q,#ffeaea 22q,#fee 23q,#fff 25q,#f9f9ff 26q,#f6f6ff 27q,#f7f7ff 28q,#fff 31q,#fffcfc 33q,#fff 36q,#fff 134q,#fdfdff 137q,#fff 140q,#fffcfc 143q,#fff 146q,#fcfcff 149q,#fff 152q,#fffdfd 155q,#fff 157q,#fff 171q,#fffefe 173q,#fff 174q,#fefeff 179q,#fff 180q,#fff 263q"></i><i style="--g:#fffafa 0,#fffafa 2q,#fff 4q,#f1f1ff 7q,#f1f1ff 8q,#f7f7ff 9q,#fffbfb 10q,#ffeded 11q,#ffe3e3 12q,#ffe3e3 13q,#fff0f0 14q,#f9f9ff 15q,#e5e5ff 16q,#ddf 17q,#e3e3ff 18q,#f3f3ff 19q,#fffafa 20q,#ffeded 21q,#ffeaea 22q,#ffeded 23q,#fff 25q,#f9f9ff 26q,#f6f6ff 27q,#f7f7ff 28q,#fff 31q,#fffcfc 33q,#fff 36q,#fff 131q,#fffefe 132q,#fff 135q,#fdfdff 138q,#fff 141q,#fffcfc 144q,#fff 147q,#fdfdff 150q,#fff 152q,#fffefe 155q,#fff 157q,#fff 172q,#fffefe 174q,#fff 175q,#fefeff 179q,#fff 181q,#fff 263q"></i><i style="--g:#fffafa 0,#fffafa 2q,#fff 4q,#f0f0ff 7q,#f1f1ff 8q,#f7f7ff 9q,#fffafa 10q,#ffecec 11q,#ffe2e2 12q,#ffe2e2 13q,#fff0f0 14q,#f9f9ff 15q,#e5e5ff 16q,#ddf 17q,#e3e3ff 18q,#f2f2ff 19q,#fffafa 20q,#ffeded 21q,#ffe9e9 22q,#ffeded 23q,#fffefe 25q,#f6f6ff 27q,#f6f6ff 28q,#fff 31q,#fffcfc 33q,#fff 36q,#fff 131q,#fffefe 133q,#fff 136q,#fdfdff 139q,#fff 142q,#fffdfd 143q,#fffcfc 145q,#fff 147q,#fdfdff 150q,#fff 153q,#fffefe 156q,#fff 158q,#fff 173q,#fffefe 174q,#fff 176q,#fefeff 180q,#fff 182q,#fff 263q"></i><i style="--g:#fffafa 0,#fffafa 2q,#fff 4q,#f0f0ff 7q,#f1f1ff 8q,#f7f7ff 9q,#fffafa 10q,#ffebeb 11q,#ffe1e1 12q,#ffe2e2 13q,#fff0f0 14q,#f8f8ff 15q,#e4e4ff 16q,#dcdcff 17q,#e2e2ff 18q,#f2f2ff 19q,#fffafa 20q,#ffeded 21q,#ffe9e9 22q,#ffecec 23q,#fffdfd 25q,#f6f6ff 27q,#f6f6ff 28q,#fff 31q,#fffcfc 33q,#fff 36q,#fff 131q,#fffefe 133q,#fff 137q,#fdfdff 139q,#fff 142q,#fffcfc 145q,#fff 148q,#fdfdff 151q,#fff 154q,#fffefe 157q,#fff 173q,#fffefe 175q,#fff 177q,#fefeff 181q,#fff 182q,#fff 263q"></i><i style="--g:#fff9f9 0,#fffafa 2q,#fff 4q,#f0f0ff 7q,#f0f0ff 8q,#f8f8ff 9q,#fffafa 10q,#ffebeb 11q,#ffe1e1 12q,#ffe1e1 13q,#ffefef 14q,#f8f8ff 15q,#e4e4ff 16q,#dbdbff 17q,#e1e1ff 18q,#f1f1ff 19q,#fffbfb 20q,#ffeded 21q,#ffe9e9 22q,#ffecec 23q,#fffdfd 25q,#f6f6ff 27q,#f6f6ff 28q,#fff 31q,#fffcfc 33q,#fff 36q,#fff 132q,#fffdfd 134q,#fff 137q,#fcfcff 140q,#fff 143q,#fffcfc 146q,#fff 149q,#fdfdff 152q,#fff 155q,#fff 169q,#fefeff 170q,#fff 174q,#fffefe 176q,#fff 178q,#fefeff 182q,#fff 183q,#fff 263q"></i><i style="--g:#fff9f9 0,#fffafa 2q,#fefeff 4q,#efefff 7q,#f0f0ff 8q,#f8f8ff 9q,#fff9f9 10q,#ffeaea 11q,#ffe0e0 12q,#ffe1e1 13q,#ffefef 14q,#f8f8ff 15q,#e3e3ff 16q,#dadaff 17q,#e0e0ff 18q,#f1f1ff 19q,#fffbfb 20q,#ffeded 21q,#ffe8e8 22q,#ffebeb 23q,#fffcfc 25q,#fafaff 26q,#f6f6ff 27q,#f6f6ff 28q,#fff 31q,#fffcfc 33q,#fff 37q,#fff 133q,#fffdfd 135q,#fff 138q,#fcfcff 141q,#fff 144q,#fffcfc 147q,#fff 150q,#fdfdff 153q,#fff 156q,#fff 169q,#fefeff 171q,#fff 175q,#fffefe 177q,#fff 179q,#fff 263q"></i><i style="--g:#fff9f9 0,#fffafa 2q,#fefeff 4q,#efefff 7q,#f0f0ff 8q,#f8f8ff 9q,#fff9f9 10q,#ffeaea 11q,#ffdfdf 12q,#ffe0e0 13q,#ffefef 14q,#f8f8ff 15q,#e3e3ff 16q,#dadaff 17q,#e0e0ff 18q,#f0f0ff 19q,#fffbfb 20q,#ffeded 21q,#ffe8e8 22q,#ffebeb 23q,#fffcfc 25q,#fafaff 26q,#f6f6ff 27q,#f6f6ff 28q,#fff 31q,#fffcfc 34q,#fff 37q,#fff 133q,#fffdfd 136q,#fff 139q,#fcfcff 142q,#fff 145q,#fffcfc 148q,#fff 151q,#fdfdff 154q,#fff 157q,#fff 170q,#fefeff 172q,#fff 176q,#fffefe 178q,#fff 180q,#fff 263q"></i><i style="--g:#fff8f8 0,#fffafa 2q,#fdfdff 4q,#f2f2ff 6q,#efefff 7q,#f0f0ff 8q,#f8f8ff 9q,#fff8f8 10q,#ffe9e9 11q,#ffdfdf 12q,#ffe0e0 13q,#ffefef 14q,#f8f8ff 15q,#e2e2ff 16q,#d9d9ff 17q,#dfdfff 18q,#efefff 19q,#fffcfc 20q,#ffeded 21q,#ffe8e8 22q,#ffeaea 23q,#fffcfc 25q,#fbfbff 26q,#f6f6ff 27q,#f6f6ff 28q,#fefeff 31q,#fffefe 32q,#fffcfc 34q,#fff 37q,#fff 134q,#fffdfd 137q,#fff 140q,#fcfcff 143q,#fff 146q,#fffcfc 149q,#fff 152q,#fdfdff 155q,#fff 157q,#fff 170q,#fefeff 172q,#fff 174q,#fffefe 179q,#fff 181q,#fff 263q"></i><i style="--g:#fff8f8 0,#fffafa 2q,#fdfdff 4q,#f2f2ff 6q,#eef 7q,#f0f0ff 8q,#f8f8ff 9q,#fff8f8 10q,#ffe8e8 11q,#ffdede 12q,#ffdfdf 13q,#ffefef 14q,#f8f8ff 15q,#e2e2ff 16q,#d8d8ff 17q,#dedeff 18q,#efefff 19q,#fffcfc 20q,#ffeded 21q,#ffe7e7 22q,#ffeaea 23q,#fffbfb 25q,#fbfbff 26q,#f6f6ff 27q,#f5f5ff 28q,#fefeff 31q,#fffefe 32q,#fffcfc 34q,#fff 37q,#fff 130q,#fefeff 131q,#fff 135q,#fffdfd 137q,#fff 140q,#fcfcff 144q,#fff 147q,#fffcfc 150q,#fff 153q,#fdfdff 156q,#fff 158q,#fff 171q,#fefeff 173q,#fff 175q,#fffefe 179q,#fff 181q,#fff 263q"></i><i style="--g:#fff8f8 0,#fffafa 2q,#fffdfd 3q,#fdfdff 4q,#f1f1ff 6q,#eef 7q,#f0f0ff 8q,#f8f8ff 9q,#fff7f7 10q,#ffe8e8 11q,#fdd 12q,#ffdfdf 13q,#fee 14q,#f8f8ff 15q,#e1e1ff 16q,#d8d8ff 17q,#ddf 18q,#fffcfc 20q,#ffeded 21q,#ffe7e7 22q,#ffe9e9 23q,#fffbfb 25q,#fbfbff 26q,#f7f7ff 27q,#f5f5ff 28q,#fff 32q,#fffcfc 34q,#fff 37q,#fff 130q,#fefeff 132q,#fff 135q,#fffcfc 138q,#fff 141q,#fcfcff 144q,#fdfdff 146q,#fff 147q,#fffcfc 151q,#fff 154q,#fefeff 157q,#fff 159q,#fffefe 168q,#fff 172q,#fdfdff 174q,#fff 176q,#fffefe 180q,#fff 182q,#fff 263q"></i><i style="--g:#fff7f7 0,#fffafa 2q,#fffdfd 3q,#fdfdff 4q,#f1f1ff 6q,#eef 7q,#f0f0ff 8q,#f9f9ff 9q,#fff7f7 10q,#ffe7e7 11q,#fdd 12q,#ffdede 13q,#fee 14q,#f7f7ff 15q,#e1e1ff 16q,#d7d7ff 17q,#dcdcff 18q,#fffdfd 20q,#ffeded 21q,#ffe7e7 22q,#ffe9e9 23q,#fffafa 25q,#fcfcff 26q,#f7f7ff 27q,#f5f5ff 28q,#fff 32q,#fffcfc 34q,#fff 37q,#fff 131q,#fdfdff 133q,#fff 136q,#fffcfc 139q,#fff 142q,#fcfcff 145q,#fdfdff 147q,#fff 148q,#fffcfc 151q,#fff 155q,#fefeff 158q,#fff 160q,#fffefe 169q,#fff 173q,#fdfdff 175q,#fff 177q,#fffefe 181q,#fff 183q,#fff 263q"></i><i style="--g:#fff7f7 0,#fff9f9 2q,#fffdfd 3q,#fcfcff 4q,#f0f0ff 6q,#ededff 7q,#f0f0ff 8q,#f9f9ff 9q,#fff6f6 10q,#ffe6e6 11q,#ffdcdc 12q,#fdd 13q,#fee 14q,#f7f7ff 15q,#e0e0ff 16q,#d6d6ff 17q,#dbdbff 18q,#fffdfd 20q,#ffeded 21q,#ffe6e6 22q,#ffe8e8 23q,#fff9f9 25q,#fcfcff 26q,#f7f7ff 27q,#f5f5ff 28q,#fff 32q,#fffcfc 34q,#fff 37q,#fff 131q,#fdfdff 134q,#fff 137q,#fffcfc 140q,#fff 143q,#fbfbff 146q,#fff 149q,#fffcfc 152q,#fff 155q,#fefeff 159q,#fff 168q,#fffefe 170q,#fff 174q,#fdfdff 176q,#fff 178q,#fffefe 182q,#fff 184q,#fff 263q"></i><i style="--g:#fff7f7 0,#fff9f9 2q,#fffdfd 3q,#fcfcff 4q,#f0f0ff 6q,#ededff 7q,#f0f0ff 8q,#f9f9ff 9q,#fff6f6 10q,#ffe5e5 11q,#ffdbdb 12q,#fdd 13q,#fee 14q,#f7f7ff 15q,#e0e0ff 16q,#d5d5ff 17q,#dbdbff 18q,#fffdfd 20q,#ffeded 21q,#ffe6e6 22q,#ffe7e7 23q,#fff9f9 25q,#fcfcff 26q,#f7f7ff 27q,#f5f5ff 28q,#fff 32q,#fffcfc 34q,#fff 37q,#fff 132q,#fdfdff 135q,#fff 138q,#fffdfd 139q,#fffcfc 141q,#fff 144q,#fbfbff 147q,#fff 150q,#fffdfd 153q,#fff 156q,#fff 168q,#fffefe 170q,#fff 174q,#fdfdff 177q,#fff 179q,#fffefe 183q,#fff 184q,#fff 263q"></i><i style="--g:#fff7f7 0,#fff9f9 2q,#fffdfd 3q,#fcfcff 4q,#f0f0ff 6q,#ededff 7q,#f0f0ff 8q,#f9f9ff 9q,#fff5f5 10q,#ffe5e5 11q,#ffdada 12q,#fdd 13q,#ffeded 14q,#f7f7ff 15q,#dfdfff 16q,#d4d4ff 17q,#dadaff 18q,#fffefe 20q,#ffeded 21q,#ffe6e6 22q,#ffe7e7 23q,#fff8f8 25q,#fdfdff 26q,#f7f7ff 27q,#f5f5ff 28q,#f6f6ff 29q,#fff 32q,#fffcfc 34q,#fff 37q,#fff 132q,#fdfdff 135q,#fff 138q,#fffcfc 142q,#fff 145q,#fbfbff 148q,#fff 151q,#fffdfd 154q,#fff 157q,#fff 169q,#fffdfd 171q,#fff 175q,#fdfdff 178q,#fff 180q,#fffefe 184q,#fff 185q,#fff 263q"></i><i style="--g:#fff6f6 0,#fff9f9 2q,#fffdfd 3q,#fbfbff 4q,#efefff 6q,#ededff 7q,#f0f0ff 8q,#fafaff 9q,#fff5f5 10q,#ffe4e4 11q,#ffd9d9 12q,#ffdcdc 13q,#ffeded 14q,#f7f7ff 15q,#dfdfff 16q,#d3d3ff 17q,#d9d9ff 18q,#fff 20q,#ffeded 21q,#ffe5e5 22q,#ffe6e6 23q,#fff8f8 25q,#fdfdff 26q,#f7f7ff 27q,#f5f5ff 28q,#f6f6ff 29q,#fff 32q,#fffcfc 34q,#fff 37q,#fff 133q,#fdfdff 136q,#fff 139q,#fffbfb 142q,#fff 146q,#fcfcff 149q,#fff 152q,#fffdfd 155q,#fff 158q,#fefeff 165q,#fff 170q,#fffdfd 172q,#fff 175q,#fdfdff 179q,#fff 181q,#fff 263q"></i><i style="--g:#fff6f6 0,#fff9f9 2q,#fffdfd 3q,#fbfbff 4q,#efefff 6q,#ececff 7q,#f0f0ff 8q,#fafaff 9q,#fff4f4 10q,#ffe3e3 11q,#ffd9d9 12q,#ffdbdb 13q,#ffeded 14q,#f7f7ff 15q,#dedeff 16q,#d3d3ff 17q,#d8d8ff 18q,#eaeaff 19q,#fff 20q,#fee 21q,#ffe5e5 22q,#ffe6e6 23q,#fff7f7 25q,#fefeff 26q,#f8f8ff 27q,#f5f5ff 28q,#f6f6ff 29q,#fff 32q,#fffdfd 34q,#fff 38q,#fff 129q,#fffefe 131q,#fff 134q,#fcfcff 137q,#fff 140q,#fffbfb 143q,#fff 147q,#fdfdff 148q,#fcfcff 150q,#fff 153q,#fffdfd 156q,#fff 159q,#fefeff 166q,#fff 171q,#fffdfd 173q,#fff 176q,#fdfdff 179q,#fff 182q,#fff 263q"></i><i style="--g:#fff6f6 0,#fff9f9 2q,#fffdfd 3q,#fbfbff 4q,#eef 6q,#ececff 7q,#f0f0ff 8q,#fafaff 9q,#fff3f3 10q,#ffe2e2 11q,#ffd8d8 12q,#ffdbdb 13q,#ffeded 14q,#f6f6ff 15q,#ddf 16q,#d2d2ff 17q,#d7d7ff 18q,#e9e9ff 19q,#fff 20q,#fee 21q,#ffe5e5 22q,#ffe5e5 23q,#ffecec 24q,#fff 26q,#f8f8ff 27q,#f5f5ff 28q,#f8f8ff 30q,#fff 32q,#fffdfd 35q,#fff 38q,#fff 129q,#fffefe 131q,#fff 135q,#fcfcff 138q,#fff 141q,#fffbfb 144q,#fffcfc 146q,#fff 147q,#fcfcff 151q,#fff 154q,#fffdfd 157q,#fff 160q,#fefeff 167q,#fff 171q,#fffdfd 174q,#fff 176q,#fefeff 180q,#fff 183q,#fff 263q"></i><i style="--g:#fff6f6 0,#fff9f9 2q,#fffefe 3q,#fafaff 4q,#eef 6q,#ececff 7q,#f0f0ff 8q,#fbfbff 9q,#fff3f3 10q,#ffe2e2 11q,#ffd7d7 12q,#ffdada 13q,#ffecec 14q,#f6f6ff 15q,#ddf 16q,#d1d1ff 17q,#d6d6ff 18q,#e8e8ff 19q,#fff 20q,#fee 21q,#ffe4e4 22q,#ffe5e5 23q,#ffecec 24q,#fff 26q,#f8f8ff 27q,#f5f5ff 28q,#f8f8ff 30q,#fff 32q,#fffdfd 35q,#fff 38q,#fff 130q,#fffdfd 132q,#fff 135q,#fcfcff 139q,#fff 142q,#fffbfb 145q,#fffcfc 147q,#fff 148q,#fcfcff 152q,#fff 155q,#fffdfd 158q,#fff 161q,#fff 166q,#fefeff 168q,#fff 172q,#fffdfd 175q,#fff 177q,#fefeff 181q,#fff 183q,#fff 263q"></i><i style="--g:#fff6f6 0,#fff9f9 2q,#fffefe 3q,#fafaff 4q,#ededff 6q,#ebebff 7q,#f0f0ff 8q,#fbfbff 9q,#fff2f2 10q,#ffe1e1 11q,#ffd6d6 12q,#ffd9d9 13q,#ffecec 14q,#f6f6ff 15q,#dcdcff 16q,#d0d0ff 17q,#d5d5ff 18q,#e7e7ff 19q,#fefeff 20q,#fee 21q,#ffe4e4 22q,#ffe4e4 23q,#ffebeb 24q,#fff 26q,#f8f8ff 27q,#f5f5ff 28q,#f5f5ff 29q,#fefeff 32q,#fffefe 33q,#fffdfd 35q,#fff 38q,#fff 130q,#fffdfd 133q,#fff 136q,#fcfcff 140q,#fff 143q,#fffbfb 146q,#fff 149q,#fcfcff 153q,#fff 156q,#fffefe 160q,#fff 166q,#fdfdff 169q,#fff 173q,#fffdfd 176q,#fff 178q,#fefeff 182q,#fff 184q,#fff 263q"></i><i style="--g:#fff5f5 0,#fff9f9 2q,#fffefe 3q,#fafaff 4q,#ededff 6q,#ebebff 7q,#f0f0ff 8q,#fbfbff 9q,#fff1f1 10q,#ffe0e0 11q,#ffd5d5 12q,#ffd9d9 13q,#ffecec 14q,#f6f6ff 15q,#dcdcff 16q,#cfcfff 17q,#d4d4ff 18q,#e6e6ff 19q,#fdfdff 20q,#fee 21q,#ffe4e4 22q,#ffe3e3 23q,#ffeaea 24q,#fff 26q,#f9f9ff 27q,#f5f5ff 28q,#f5f5ff 29q,#fefeff 32q,#fff 33q,#fffdfd 35q,#fff 38q,#fff 131q,#fffdfd 134q,#fff 137q,#fbfbff 140q,#fff 144q,#fffdfd 145q,#fffbfb 147q,#fff 150q,#fcfcff 153q,#fff 157q,#fffefe 161q,#fff 167q,#fdfdff 170q,#fff 174q,#fffdfd 177q,#fff 179q,#fefeff 183q,#fff 185q,#fff 263q"></i><i style="--g:#fff5f5 0,#fff9f9 2q,#fff 3q,#ededff 6q,#ebebff 7q,#f0f0ff 8q,#fcfcff 9q,#fff1f1 10q,#ffdfdf 11q,#ffd4d4 12q,#ffd8d8 13q,#ffebeb 14q,#f6f6ff 15q,#dbdbff 16q,#ceceff 17q,#d3d3ff 18q,#e5e5ff 19q,#fcfcff 20q,#fee 21q,#ffe4e4 22q,#ffe3e3 23q,#ffeaea 24q,#fffefe 26q,#f5f5ff 28q,#f5f5ff 29q,#fff 33q,#fffdfd 35q,#fff 38q,#fff 132q,#fffdfd 135q,#fff 138q,#fbfbff 141q,#fff 145q,#fffcfc 146q,#fffbfb 148q,#fff 151q,#fcfcff 154q,#fff 158q,#fffefe 163q,#fff 168q,#fdfdff 171q,#fff 174q,#fffdfd 178q,#fff 180q,#fefeff 184q,#fff 186q,#fff 263q"></i><i style="--g:#fff5f5 0,#fff9f9 2q,#fff 3q,#ececff 6q,#ebebff 7q,#f0f0ff 8q,#fcfcff 9q,#fff0f0 10q,#ffdede 11q,#ffd4d4 12q,#ffd7d7 13q,#ffebeb 14q,#f5f5ff 15q,#dadaff 16q,#cdcdff 17q,#d2d2ff 18q,#e4e4ff 19q,#fcfcff 20q,#fee 21q,#ffe4e4 22q,#ffe2e2 23q,#ffe9e9 24q,#fffdfd 26q,#f5f5ff 28q,#f5f5ff 29q,#fff 33q,#fffdfd 35q,#fff 38q,#fff 128q,#fefeff 129q,#fff 132q,#fffcfc 136q,#fff 139q,#fbfbff 142q,#fff 146q,#fffcfc 147q,#fffbfb 149q,#fff 152q,#fdfdff 156q,#fff 159q,#fffefe 164q,#fff 169q,#fdfdff 172q,#fff 175q,#fffdfd 179q,#fff 181q,#fefeff 185q,#fff 186q,#fff 263q"></i><i style="--g:#fff5f5 0,#fff9f9 2q,#fff 3q,#ececff 6q,#ebebff 7q,#f0f0ff 8q,#fdfdff 9q,#ffefef 10q,#fdd 11q,#ffd3d3 12q,#ffd7d7 13q,#ffebeb 14q,#f5f5ff 15q,#dadaff 16q,#ccf 17q,#d1d1ff 18q,#e3e3ff 19q,#fbfbff 20q,#ffefef 21q,#ffe3e3 22q,#ffe2e2 23q,#ffe8e8 24q,#fffdfd 26q,#fafaff 27q,#f5f5ff 28q,#f5f5ff 29q,#fff 33q,#fffdfd 35q,#fff 38q,#fff 128q,#fefeff 130q,#fff 133q,#fffcfc 137q,#fff 140q,#fbfbff 143q,#fcfcff 145q,#fff 146q,#fffbfb 150q,#fff 153q,#fdfdff 157q,#fff 160q,#fffdfd 166q,#fff 170q,#fdfdff 173q,#fff 176q,#fffdfd 179q,#fff 182q,#fff 263q"></i><i style="--g:#fff5f5 0,#fff9f9 2q,#fff 3q,#f1f1ff 5q,#ebebff 6q,#eaeaff 7q,#f0f0ff 8q,#fdfdff 9q,#ffefef 10q,#ffdcdc 11q,#ffd2d2 12q,#ffd6d6 13q,#ffebeb 14q,#f5f5ff 15q,#d9d9ff 16q,#ccf 17q,#d0d0ff 18q,#e2e2ff 19q,#fbfbff 20q,#ffefef 21q,#ffe3e3 22q,#ffe1e1 23q,#ffe7e7 24q,#fffcfc 26q,#fafaff 27q,#f5f5ff 28q,#f4f4ff 29q,#fff 33q,#fffdfd 35q,#fff 38q,#fff 129q,#fefeff 131q,#fff 134q,#fffcfc 137q,#fff 141q,#fcfcff 142q,#fafaff 144q,#fcfcff 146q,#fff 147q,#fffbfb 151q,#fff 154q,#fdfdff 158q,#fff 161q,#fffdfd 167q,#fff 171q,#fdfdff 174q,#fff 177q,#fffdfd 180q,#fff 183q,#fff 263q"></i><i style="--g:#fff4f4 0,#fff9f9 2q,#fff 3q,#f1f1ff 5q,#ebebff 6q,#eaeaff 7q,#f0f0ff 8q,#fdfdff 9q,#ffdbdb 11q,#ffd1d1 12q,#ffd5d5 13q,#ffeaea 14q,#f5f5ff 15q,#d8d8ff 16q,#cacaff 17q,#cfcfff 18q,#e1e1ff 19q,#fafaff 20q,#ffefef 21q,#ffe3e3 22q,#ffe1e1 23q,#ffe7e7 24q,#fffbfb 26q,#fafaff 27q,#f6f6ff 28q,#f4f4ff 29q,#fff 33q,#fffdfd 35q,#fff 39q,#fff 129q,#fdfdff 132q,#fff 135q,#fffbfb 138q,#fff 142q,#fcfcff 143q,#fafaff 145q,#fcfcff 147q,#fff 148q,#fffbfb 152q,#fff 155q,#fdfdff 159q,#fff 162q,#fffdfd 168q,#fff 172q,#fdfdff 175q,#fff 178q,#fffdfd 181q,#fff 184q,#fff 263q"></i><i style="--g:#fff4f4 0,#fff9f9 2q,#fff 3q,#f0f0ff 5q,#ebebff 6q,#eaeaff 7q,#f0f0ff 8q,#fefeff 9q,#ffdada 11q,#ffd0d0 12q,#ffd5d5 13q,#ffeaea 14q,#f5f5ff 15q,#d8d8ff 16q,#c9c9ff 17q,#cdcdff 18q,#e0e0ff 19q,#f9f9ff 20q,#ffefef 21q,#ffe3e3 22q,#ffe0e0 23q,#ffe6e6 24q,#fffbfb 26q,#fbfbff 27q,#f6f6ff 28q,#f4f4ff 29q,#fff 33q,#fffdfd 36q,#fff 39q,#fff 130q,#fdfdff 133q,#fff 136q,#fffbfb 139q,#fffcfc 141q,#fff 142q,#fafaff 146q,#fcfcff 148q,#fff 149q,#fffcfc 153q,#fff 156q,#fdfdff 160q,#fff 166q,#fffdfd 169q,#fff 173q,#fdfdff 176q,#fff 179q,#fffdfd 182q,#fff 185q,#fff 263q"></i><i style="--g:#fff4f4 0,#fff9f9 2q,#fff 3q,#f0f0ff 5q,#eaeaff 6q,#eaeaff 7q,#f0f0ff 8q,#fff 9q,#ffd9d9 11q,#ffcfcf 12q,#ffd4d4 13q,#ffeaea 14q,#f4f4ff 15q,#d7d7ff 16q,#c8c8ff 17q,#ccf 18q,#dfdfff 19q,#f8f8ff 20q,#fff0f0 21q,#ffe3e3 22q,#ffe0e0 23q,#ffe5e5 24q,#fffafa 26q,#fbfbff 27q,#f6f6ff 28q,#f4f4ff 29q,#f5f5ff 30q,#fff 33q,#fffdfd 36q,#fff 39q,#fff 130q,#fdfdff 133q,#fff 137q,#fffbfb 140q,#fffcfc 142q,#fff 143q,#fafaff 147q,#fcfcff 149q,#fff 150q,#fffcfc 154q,#fff 157q,#fdfdff 161q,#fff 167q,#fffdfd 170q,#fff 174q,#fdfdff 177q,#fff 180q,#fffefe 183q,#fff 186q,#fff 263q"></i><i style="--g:#fff4f4 0,#fff5f5 1q,#fff 3q,#efefff 5q,#eaeaff 6q,#eaeaff 7q,#f0f0ff 8q,#fff 9q,#ffd8d8 11q,#ffcece 12q,#ffd3d3 13q,#ffeaea 14q,#f4f4ff 15q,#d6d6ff 16q,#c7c7ff 17q,#cbcbff 18q,#dedeff 19q,#f8f8ff 20q,#fff0f0 21q,#ffe2e2 22q,#ffdfdf 23q,#ffe4e4 24q,#fff9f9 26q,#fcfcff 27q,#f6f6ff 28q,#f4f4ff 29q,#f8f8ff 31q,#fff 33q,#fffdfd 36q,#fff 39q,#fff 131q,#fcfcff 134q,#fff 137q,#fffafa 141q,#fffcfc 143q,#fff 144q,#fafaff 148q,#fcfcff 150q,#fff 151q,#fffcfc 155q,#fff 158q,#fdfdff 163q,#fff 168q,#fffdfd 171q,#fff 174q,#fdfdff 178q,#fff 181q,#fffefe 184q,#fff 186q,#fff 263q"></i><i style="--g:#fff4f4 0,#fff5f5 1q,#fff 3q,#efefff 5q,#eaeaff 6q,#eaeaff 7q,#f1f1ff 8q,#fff 9q,#ffd7d7 11q,#ffcdcd 12q,#ffd3d3 13q,#ffe9e9 14q,#f4f4ff 15q,#d6d6ff 16q,#c6c6ff 17q,#cacaff 18q,#ddf 19q,#f7f7ff 20q,#fff0f0 21q,#ffe2e2 22q,#ffdfdf 23q,#ffe4e4 24q,#fff9f9 26q,#fcfcff 27q,#f6f6ff 28q,#f4f4ff 29q,#fff 34q,#fffdfd 36q,#fff 39q,#fff 132q,#fcfcff 135q,#fff 138q,#fffafa 142q,#fffcfc 144q,#fff 145q,#fafaff 149q,#fcfcff 151q,#fff 152q,#fffcfc 156q,#fff 159q,#fdfdff 164q,#fff 169q,#fffdfd 172q,#fff 175q,#fdfdff 179q,#fff 182q,#fffefe 185q,#fff 187q,#fff 263q"></i><i style="--g:#fff4f4 0,#fff5f5 1q,#fefeff 3q,#eef 5q,#e9e9ff 6q,#e9e9ff 7q,#f1f1ff 8q,#fff 9q,#ffd6d6 11q,#fcc 12q,#ffd2d2 13q,#ffe9e9 14q,#f4f4ff 15q,#d5d5ff 16q,#c5c5ff 17q,#c9c9ff 18q,#dcdcff 19q,#f6f6ff 20q,#fff1f1 21q,#ffe2e2 22q,#ffdede 23q,#ffe3e3 24q,#fff8f8 26q,#fdfdff 27q,#f7f7ff 28q,#f4f4ff 29q,#f5f5ff 30q,#fefeff 33q,#fff 34q,#fffdfd 36q,#fff 39q,#fff 127q,#fffefe 129q,#fff 132q,#fcfcff 136q,#fff 139q,#fffafa 143q,#fffcfc 145q,#fff 146q,#fafaff 150q,#fff 154q,#fffcfc 157q,#fff 160q,#fdfdff 165q,#fff 169q,#fffdfd 173q,#fff 176q,#fdfdff 179q,#fff 182q,#fffefe 186q,#fff 188q,#fff 263q"></i><i style="--g:#fff4f4 0,#fff6f6 1q,#fefeff 3q,#eef 5q,#e9e9ff 6q,#e9e9ff 7q,#f1f1ff 8q,#fffdfd 9q,#ffd5d5 11q,#fcc 12q,#ffd1d1 13q,#ffe9e9 14q,#f3f3ff 15q,#d4d4ff 16q,#c4c4ff 17q,#c7c7ff 18q,#dbdbff 19q,#f5f5ff 20q,#fff1f1 21q,#ffe2e2 22q,#fdd 23q,#ffe2e2 24q,#fff7f7 26q,#fdfdff 27q,#f7f7ff 28q,#f4f4ff 29q,#f5f5ff 30q,#fff 34q,#fffdfd 36q,#fff 39q,#fff 128q,#fffefe 130q,#fff 133q,#fbfbff 137q,#fff 140q,#fffafa 144q,#fffcfc 146q,#fff 147q,#fbfbff 151q,#fff 155q,#fffcfc 158q,#fff 162q,#fdfdff 166q,#fff 170q,#fffdfd 174q,#fff 177q,#fdfdff 180q,#fff 183q,#fff 263q"></i><i style="--g:#fff4f4 0,#fff6f6 1q,#fdfdff 3q,#ededff 5q,#e9e9ff 6q,#e9e9ff 7q,#f1f1ff 8q,#fffdfd 9q,#ffd4d4 11q,#ffcaca 12q,#ffd0d0 13q,#ffe8e8 14q,#f3f3ff 15q,#d3d3ff 16q,#c3c3ff 17q,#c6c6ff 18q,#dadaff 19q,#f4f4ff 20q,#fff2f2 21q,#ffe2e2 22q,#fdd 23q,#ffe1e1 24q,#fff6f6 26q,#fefeff 27q,#f7f7ff 28q,#f4f4ff 29q,#f5f5ff 30q,#fff 34q,#fffdfd 36q,#fff 39q,#fff 128q,#fffdfd 131q,#fff 134q,#fbfbff 138q,#fff 141q,#fffafa 145q,#fffefe 148q,#fefeff 149q,#fbfbff 152q,#fff 156q,#fffdfd 159q,#fff 163q,#fdfdff 167q,#fff 171q,#fffdfd 175q,#fff 178q,#fdfdff 181q,#fff 184q,#fff 263q"></i><i style="--g:#fff4f4 0,#fff6f6 1q,#fdfdff 3q,#ededff 5q,#e8e8ff 6q,#e9e9ff 7q,#f2f2ff 8q,#fffcfc 9q,#ffd3d3 11q,#ffc9c9 12q,#ffd0d0 13q,#ffe8e8 14q,#f3f3ff 15q,#d3d3ff 16q,#c2c2ff 17q,#c5c5ff 18q,#d9d9ff 19q,#f3f3ff 20q,#fff2f2 21q,#ffe2e2 22q,#fdd 23q,#ffe1e1 24q,#fff 27q,#f8f8ff 28q,#f4f4ff 29q,#f7f7ff 31q,#fff 34q,#fffdfd 36q,#fff 39q,#fff 129q,#fffdfd 132q,#fff 135q,#fbfbff 139q,#fff 142q,#fffafa 146q,#fff 150q,#fcfcff 151q,#fbfbff 153q,#fff 157q,#fffdfd 160q,#fff 164q,#fdfdff 168q,#fff 172q,#fffdfd 176q,#fff 179q,#fdfdff 182q,#fff 185q,#fff 263q"></i><i style="--g:#fff4f4 0,#fff6f6 1q,#fffafa 2q,#fdfdff 3q,#ededff 5q,#e8e8ff 6q,#e9e9ff 7q,#f2f2ff 8q,#fffbfb 9q,#ffd2d2 11q,#ffc8c8 12q,#ffcfcf 13q,#ffe8e8 14q,#f3f3ff 15q,#d2d2ff 16q,#c0c0ff 17q,#c4c4ff 18q,#d7d7ff 19q,#f3f3ff 20q,#fff2f2 21q,#ffe2e2 22q,#ffdcdc 23q,#ffe0e0 24q,#fff 27q,#f8f8ff 28q,#f4f4ff 29q,#f4f4ff 30q,#fff 34q,#fffdfd 36q,#fff 40q,#fff 129q,#fffdfd 133q,#fff 136q,#fafaff 140q,#fff 143q,#fffbfb 145q,#fffafa 147q,#fff 151q,#fcfcff 152q,#fbfbff 154q,#fff 158q,#fffdfd 162q,#fff 166q,#fdfdff 169q,#fff 173q,#fffdfd 177q,#fff 180q,#fdfdff 184q,#fff 186q,#fff 263q"></i><i style="--g:#fff4f4 0,#fff6f6 1q,#fffbfb 2q,#fcfcff 3q,#ececff 5q,#e8e8ff 6q,#e9e9ff 7q,#f2f2ff 8q,#fffbfb 9q,#ffd1d1 11q,#ffc7c7 12q,#ffcece 13q,#ffe7e7 14q,#f2f2ff 15q,#d1d1ff 16q,#bfbfff 17q,#c2c2ff 18q,#d6d6ff 19q,#f2f2ff 20q,#fff3f3 21q,#ffe2e2 22q,#ffdcdc 23q,#ffdfdf 24q,#fff 27q,#f8f8ff 28q,#f5f5ff 29q,#f4f4ff 30q,#fff 34q,#fffdfd 37q,#fff 40q,#fff 130q,#fffcfc 134q,#fff 137q,#fbfbff 139q,#fafaff 141q,#fff 144q,#fffbfb 146q,#fffafa 148q,#fff 152q,#fdfdff 153q,#fbfbff 155q,#fff 159q,#fffdfd 163q,#fff 167q,#fdfdff 170q,#fff 174q,#fffdfd 178q,#fff 181q,#fefeff 185q,#fff 187q,#fff 263q"></i><i style="--g:#fff4f4 0,#fff6f6 1q,#fffbfb 2q,#fcfcff 3q,#ececff 5q,#e7e7ff 6q,#e9e9ff 7q,#f3f3ff 8q,#fffafa 9q,#ffd0d0 11q,#ffc6c6 12q,#ffcdcd 13q,#ffe7e7 14q,#f2f2ff 15q,#d0d0ff 16q,#bebeff 17q,#c1c1ff 18q,#d5d5ff 19q,#f1f1ff 20q,#fff3f3 21q,#ffe2e2 22q,#ffdbdb 23q,#ffdede 24q,#ffe7e7 25q,#fffefe 27q,#f5f5ff 29q,#f4f4ff 30q,#fff 34q,#fffdfd 37q,#fff 40q,#fff 131q,#fffcfc 135q,#fff 138q,#fbfbff 140q,#fafaff 142q,#fcfcff 144q,#fff 145q,#fffafa 149q,#fff 153q,#fcfcff 156q,#fff 160q,#fffdfd 164q,#fff 168q,#fcfcff 171q,#fff 175q,#fffdfd 179q,#fff 182q,#fefeff 186q,#fff 188q,#fff 263q"></i><i style="--g:#fff4f4 0,#fff6f6 1q,#fffbfb 2q,#fcfcff 3q,#ebebff 5q,#e7e7ff 6q,#e9e9ff 7q,#f3f3ff 8q,#fff9f9 9q,#ffcfcf 11q,#ffc5c5 12q,#fcc 13q,#ffe7e7 14q,#f2f2ff 15q,#cfcfff 16q,#bdbdff 17q,#bfbfff 18q,#d3d3ff 19q,#f0f0ff 20q,#fff4f4 21q,#ffe2e2 22q,#ffdbdb 23q,#fdd 24q,#ffe7e7 25q,#fffdfd 27q,#f5f5ff 29q,#f4f4ff 30q,#fff 34q,#fffdfd 37q,#fff 40q,#fff 127q,#fefeff 128q,#fff 132q,#fffbfb 136q,#fff 139q,#fbfbff 141q,#f9f9ff 143q,#fcfcff 145q,#fff 146q,#fffafa 150q,#fff 154q,#fcfcff 157q,#fff 161q,#fffdfd 165q,#fff 169q,#fcfcff 172q,#fff 176q,#fffdfd 180q,#fff 183q,#fefeff 187q,#fff 188q,#fff 263q"></i><i style="--g:#fff5f5 0,#fff6f6 1q,#fffbfb 2q,#fbfbff 3q,#ebebff 5q,#e7e7ff 6q,#e9e9ff 7q,#f3f3ff 8q,#fff8f8 9q,#ffcdcd 11q,#ffc4c4 12q,#fcc 13q,#ffe7e7 14q,#f2f2ff 15q,#cfcfff 16q,#bbf 17q,#bebeff 18q,#d2d2ff 19q,#eef 20q,#fff5f5 21q,#ffe2e2 22q,#ffdada 23q,#fdd 24q,#ffe6e6 25q,#fffcfc 27q,#fafaff 28q,#f5f5ff 29q,#f4f4ff 30q,#fff 35q,#fffdfd 37q,#fff 40q,#fff 127q,#fefeff 129q,#fff 133q,#fffcfc 135q,#fffbfb 137q,#fff 140q,#fafaff 142q,#f9f9ff 144q,#fcfcff 146q,#fff 147q,#fffafa 151q,#fff 155q,#fcfcff 158q,#fff 162q,#fffdfd 166q,#fff 170q,#fcfcff 173q,#fff 177q,#fffdfd 181q,#fff 184q,#fefeff 188q,#fff 189q,#fff 263q"></i><i style="--g:#fff5f5 0,#fff7f7 1q,#fffcfc 2q,#fbfbff 3q,#ebebff 5q,#e7e7ff 6q,#e9e9ff 7q,#f4f4ff 8q,#fff8f8 9q,#fcc 11q,#ffc3c3 12q,#ffcbcb 13q,#ffe6e6 14q,#f1f1ff 15q,#ceceff 16q,#bbf 17q,#bcbcff 18q,#d1d1ff 19q,#ededff 20q,#fff5f5 21q,#ffe2e2 22q,#ffdada 23q,#ffdcdc 24q,#ffe5e5 25q,#fffbfb 27q,#fafaff 28q,#f5f5ff 29q,#f4f4ff 30q,#fff 35q,#fffdfd 37q,#fff 40q,#fff 127q,#fdfdff 130q,#fff 133q,#fffbfb 137q,#fffcfc 139q,#fff 141q,#fafaff 143q,#f9f9ff 145q,#fefeff 148q,#fffefe 149q,#fffafa 152q,#fff 156q,#fcfcff 159q,#fff 163q,#fffdfd 167q,#fff 171q,#fcfcff 174q,#fff 178q,#fffdfd 182q,#fff 185q,#fff 263q"></i><i style="--g:#fff5f5 0,#fff7f7 1q,#fffcfc 2q,#fafaff 3q,#eaeaff 5q,#e7e7ff 6q,#e9e9ff 7q,#f4f4ff 8q,#fff7f7 9q,#ffcbcb 11q,#ffc1c1 12q,#ffcaca 13q,#ffe6e6 14q,#f1f1ff 15q,#cdcdff 16q,#b9b9ff 17q,#bbf 18q,#cfcfff 19q,#ececff 20q,#fff6f6 21q,#ffe2e2 22q,#ffdada 23q,#ffdbdb 24q,#ffe4e4 25q,#fffbfb 27q,#fbfbff 28q,#f6f6ff 29q,#f4f4ff 30q,#fff 35q,#fffdfd 37q,#fff 40q,#fff 128q,#fdfdff 131q,#fff 134q,#fffafa 138q,#fffbfb 140q,#fff 142q,#fafaff 144q,#f9f9ff 146q,#fefeff 149q,#fffefe 150q,#fffafa 153q,#fff 157q,#fcfcff 160q,#fff 164q,#fffcfc 168q,#fff 172q,#fcfcff 175q,#fff 179q,#fffdfd 183q,#fff 186q,#fff 263q"></i><i style="--g:#fff5f5 0,#fff7f7 1q,#fffcfc 2q,#fafaff 3q,#eaeaff 5q,#e6e6ff 6q,#e9e9ff 7q,#f5f5ff 8q,#fff6f6 9q,#ffcaca 11q,#ffc0c0 12q,#ffc9c9 13q,#ffe6e6 14q,#f1f1ff 15q,#ccf 16q,#b8b8ff 17q,#b9b9ff 18q,#ceceff 19q,#ebebff 20q,#fff7f7 21q,#ffe2e2 22q,#ffd9d9 23q,#ffdada 24q,#ffe3e3 25q,#fffafa 27q,#fbfbff 28q,#f6f6ff 29q,#f4f4ff 30q,#f5f5ff 31q,#fff 35q,#fffdfd 37q,#fff 40q,#fff 129q,#fdfdff 132q,#fff 135q,#fffafa 139q,#fffbfb 141q,#fff 143q,#fafaff 145q,#f9f9ff 147q,#fff 151q,#fffcfc 152q,#fffbfb 154q,#fff 158q,#fcfcff 162q,#fff 166q,#fffcfc 169q,#fff 173q,#fcfcff 176q,#fff 180q,#fffdfd 184q,#fff 187q,#fff 263q"></i><i style="--g:#fff6f6 0,#fff7f7 1q,#fffdfd 2q,#fafaff 3q,#eaeaff 5q,#e6e6ff 6q,#eaeaff 7q,#f5f5ff 8q,#fff5f5 9q,#ffc8c8 11q,#ffbfbf 12q,#ffc8c8 13q,#ffe5e5 14q,#f0f0ff 15q,#cbcbff 16q,#b6b6ff 17q,#b8b8ff 18q,#ccf 19q,#eaeaff 20q,#fff7f7 21q,#ffe3e3 22q,#ffd9d9 23q,#ffdada 24q,#ffe2e2 25q,#fff9f9 27q,#fcfcff 28q,#f6f6ff 29q,#f4f4ff 30q,#f5f5ff 31q,#fff 35q,#fffdfd 38q,#fff 40q,#fff 129q,#fcfcff 133q,#fff 136q,#fff9f9 140q,#fffafa 142q,#fff 144q,#fafaff 146q,#f9f9ff 148q,#fff 152q,#fffbfb 155q,#fff 159q,#fdfdff 163q,#fff 167q,#fffcfc 170q,#fff 173q,#fcfcff 177q,#fff 181q,#fffdfd 185q,#fff 188q,#fff 263q"></i><i style="--g:#fff6f6 0,#fff8f8 1q,#fffdfd 2q,#f9f9ff 3q,#e9e9ff 5q,#e6e6ff 6q,#eaeaff 7q,#f6f6ff 8q,#fff4f4 9q,#ffc7c7 11q,#ffbebe 12q,#ffc8c8 13q,#ffe5e5 14q,#f0f0ff 15q,#cacaff 16q,#b5b5ff 17q,#b6b6ff 18q,#cbcbff 19q,#e9e9ff 20q,#fff8f8 21q,#ffe3e3 22q,#ffd9d9 23q,#ffd9d9 24q,#ffe1e1 25q,#fff8f8 27q,#fcfcff 28q,#f6f6ff 29q,#f4f4ff 30q,#f4f4ff 31q,#fff 35q,#fffdfd 38q,#fff 41q,#fff 130q,#fcfcff 134q,#fff 137q,#fff9f9 141q,#fffafa 143q,#fff 145q,#fafaff 147q,#f9f9ff 149q,#fff 153q,#fffbfb 156q,#fff 160q,#fdfdff 164q,#fff 168q,#fffcfc 171q,#fff 175q,#fcfcff 179q,#fff 182q,#fffefe 186q,#fff 188q,#fff 263q"></i><i style="--g:#fff6f6 0,#fff8f8 1q,#fffdfd 2q,#f9f9ff 3q,#e9e9ff 5q,#e6e6ff 6q,#eaeaff 7q,#f7f7ff 8q,#fff3f3 9q,#ffc6c6 11q,#ffbdbd 12q,#ffc7c7 13q,#ffe5e5 14q,#f0f0ff 15q,#c9c9ff 16q,#b4b4ff 17q,#b5b5ff 18q,#c9c9ff 19q,#e7e7ff 20q,#fff9f9 21q,#ffe3e3 22q,#ffd8d8 23q,#ffd8d8 24q,#ffe0e0 25q,#fff7f7 27q,#fdfdff 28q,#f7f7ff 29q,#f4f4ff 30q,#f4f4ff 31q,#fff 35q,#fffdfd 38q,#fff 41q,#fff 126q,#fffefe 127q,#fff 131q,#fbfbff 135q,#fdfdff 137q,#fff 138q,#fff9f9 142q,#fffafa 144q,#fff 146q,#fbfbff 148q,#f9f9ff 150q,#fff 154q,#fffcfc 157q,#fff 161q,#fcfcff 165q,#fff 169q,#fffcfc 172q,#fff 176q,#fcfcff 180q,#fff 183q,#fffefe 187q,#fff 189q,#fff 263q"></i><i style="--g:#fff7f7 0,#fff9f9 1q,#fffefe 2q,#f8f8ff 3q,#e8e8ff 5q,#e6e6ff 6q,#eaeaff 7q,#f7f7ff 8q,#fff2f2 9q,#ffc4c4 11q,#fbb 12q,#ffc6c6 13q,#ffe4e4 14q,#efefff 15q,#c8c8ff 16q,#b2b2ff 17q,#b3b3ff 18q,#c8c8ff 19q,#e6e6ff 20q,#fffafa 21q,#ffe3e3 22q,#ffd8d8 23q,#ffd8d8 24q,#ffdfdf 25q,#fff6f6 27q,#fefeff 28q,#f7f7ff 29q,#f4f4ff 30q,#f4f4ff 31q,#fff 35q,#fffdfd 38q,#fff 41q,#fff 126q,#fffefe 128q,#fff 132q,#fbfbff 136q,#fcfcff 138q,#fff 139q,#fff8f8 143q,#fff9f9 145q,#fff 147q,#f9f9ff 151q,#fff 155q,#fffcfc 158q,#fff 162q,#fcfcff 166q,#fff 170q,#fffcfc 173q,#fff 177q,#fcfcff 181q,#fff 184q,#fffefe 188q,#fff 190q,#fff 263q"></i><i style="--g:#fff7f7 0,#fff9f9 1q,#fff 2q,#e8e8ff 5q,#e6e6ff 6q,#ebebff 7q,#f8f8ff 8q,#fff1f1 9q,#ffc3c3 11q,#fbb 12q,#ffc5c5 13q,#ffe4e4 14q,#efefff 15q,#c7c7ff 16q,#b1b1ff 17q,#b1b1ff 18q,#c6c6ff 19q,#e5e5ff 20q,#fffbfb 21q,#ffe4e4 22q,#ffd8d8 23q,#ffd7d7 24q,#ffdede 25q,#fff5f5 27q,#fff 28q,#f8f8ff 29q,#f4f4ff 30q,#f4f4ff 31q,#fff 36q,#fffdfd 38q,#fff 41q,#fff 126q,#fffdfd 129q,#fff 133q,#fafaff 137q,#fefeff 140q,#fffefe 141q,#fff8f8 144q,#fff9f9 146q,#fffefe 148q,#fefeff 149q,#f9f9ff 152q,#fff 156q,#fffcfc 159q,#fff 163q,#fcfcff 167q,#fff 171q,#fffcfc 174q,#fff 178q,#fdfdff 182q,#fff 185q,#fff 263q"></i><i style="--g:#fff7f7 0,#fff9f9 1q,#fff 2q,#efefff 4q,#e8e8ff 5q,#e6e6ff 6q,#ebebff 7q,#f9f9ff 8q,#fff0f0 9q,#ffc1c1 11q,#ffb9b9 12q,#ffc4c4 13q,#ffe4e4 14q,#efefff 15q,#c6c6ff 16q,#afafff 17q,#b0b0ff 18q,#c4c4ff 19q,#e3e3ff 20q,#fffbfb 21q,#ffe4e4 22q,#ffd8d8 23q,#ffd6d6 24q,#fdd 25q,#fff 28q,#f8f8ff 29q,#f5f5ff 30q,#f4f4ff 31q,#fff 36q,#fffdfd 38q,#fff 41q,#fff 127q,#fffdfd 130q,#fff 134q,#fbfbff 136q,#fafaff 138q,#fefeff 141q,#fffefe 142q,#fff9f9 144q,#fff8f8 146q,#fffdfd 149q,#fefeff 150q,#fafaff 153q,#fff 157q,#fffcfc 160q,#fff 164q,#fcfcff 168q,#fff 172q,#fffcfc 175q,#fff 179q,#fdfdff 183q,#fff 186q,#fff 263q"></i><i style="--g:#fff8f8 0,#fffafa 1q,#fff 2q,#eef 4q,#e8e8ff 5q,#e6e6ff 6q,#ebebff 7q,#f9f9ff 8q,#ffefef 9q,#ffc0c0 11q,#ffb8b8 12q,#ffc3c3 13q,#ffe3e3 14q,#eef 15q,#c5c5ff 16q,#aeaeff 17q,#aeaeff 18q,#c2c2ff 19q,#e2e2ff 20q,#fffcfc 21q,#ffe4e4 22q,#ffd7d7 23q,#ffd6d6 24q,#ffdcdc 25q,#fff 28q,#f9f9ff 29q,#f5f5ff 30q,#f4f4ff 31q,#fff 36q,#fffefe 38q,#fff 41q,#fff 128q,#fffcfc 131q,#fff 135q,#fbfbff 137q,#f9f9ff 139q,#fff 143q,#fff9f9 145q,#fff8f8 147q,#fff 151q,#fcfcff 152q,#fafaff 154q,#fff 158q,#fffcfc 162q,#fff 165q,#fcfcff 169q,#fff 173q,#fffcfc 176q,#fff 180q,#fdfdff 184q,#fff 187q,#fff 263q"></i><i style="--g:#fff8f8 0,#fffafa 1q,#fff 2q,#eef 4q,#e7e7ff 5q,#e6e6ff 6q,#ececff 7q,#fafaff 8q,#fee 9q,#ffbfbf 11q,#ffb6b6 12q,#ffc2c2 13q,#ffe3e3 14q,#eef 15q,#c4c4ff 16q,#acacff 17q,#acacff 18q,#c1c1ff 19q,#fffdfd 21q,#ffe5e5 22q,#ffd7d7 23q,#ffd5d5 24q,#ffdbdb 25q,#fffdfd 28q,#f5f5ff 30q,#f4f4ff 31q,#fff 36q,#fffefe 39q,#fff 41q,#fff 128q,#fffcfc 132q,#fff 136q,#fafaff 138q,#f8f8ff 140q,#fafaff 142q,#fff 144q,#fff9f9 146q,#fff8f8 148q,#fff 152q,#fbfbff 155q,#fff 159q,#fffcfc 163q,#fff 166q,#fcfcff 170q,#fff 174q,#fffcfc 177q,#fff 181q,#fdfdff 185q,#fff 188q,#fff 263q"></i><i style="--g:#fff9f9 0,#fdfdff 2q,#ededff 4q,#e7e7ff 5q,#e6e6ff 6q,#ececff 7q,#fbfbff 8q,#ffecec 9q,#ffbdbd 11q,#ffb5b5 12q,#ffc1c1 13q,#ffe3e3 14q,#eef 15q,#c3c3ff 16q,#aaf 17q,#aaf 18q,#bfbfff 19q,#fff 21q,#ffe5e5 22q,#ffd7d7 23q,#ffd4d4 24q,#ffdada 25q,#fffcfc 28q,#fafaff 29q,#f5f5ff 30q,#f4f4ff 31q,#fff 36q,#fffefe 39q,#fff 41q,#fff 129q,#fffbfb 133q,#fff 137q,#fafaff 139q,#f8f8ff 141q,#fafaff 143q,#fff 145q,#fffafa 147q,#fff8f8 149q,#fff 153q,#fbfbff 156q,#fff 160q,#fffdfd 164q,#fff 167q,#fcfcff 171q,#fff 174q,#fffcfc 179q,#fff 182q,#fdfdff 186q,#fff 189q,#fff 263q"></i><i style="--g:#fffafa 0,#fdfdff 2q,#ededff 4q,#e7e7ff 5q,#e6e6ff 6q,#ececff 7q,#fcfcff 8q,#ffebeb 9q,#fbb 11q,#ffb4b4 12q,#ffc1c1 13q,#ffe3e3 14q,#ededff 15q,#c2c2ff 16q,#aaf 17q,#a9a9ff 18q,#bdbdff 19q,#fff 21q,#ffe6e6 22q,#ffd7d7 23q,#ffd4d4 24q,#ffd9d9 25q,#fffcfc 28q,#fafaff 29q,#f6f6ff 30q,#f4f4ff 31q,#fff 36q,#fffefe 39q,#fff 41q,#fff 125q,#fefeff 127q,#fff 130q,#fffbfb 134q,#fffcfc 136q,#fff 138q,#fafaff 140q,#f7f7ff 142q,#f9f9ff 144q,#fff 146q,#fffafa 148q,#fff8f8 150q,#fffafa 152q,#fff 154q,#fbfbff 157q,#fff 161q,#fffcfc 165q,#fff 168q,#fbfbff 172q,#fff 176q,#fffcfc 180q,#fff 184q,#fefeff 187q,#fff 190q,#fff 263q"></i><i style="--g:#fffafa 0,#fffcfc 1q,#fcfcff 2q,#ececff 4q,#e6e6ff 5q,#e6e6ff 6q,#ededff 7q,#fdfdff 8q,#ffeaea 9q,#ffd0d0 10q,#ffbaba 11q,#ffb2b2 12q,#ffc0c0 13q,#ffe2e2 14q,#ededff 15q,#c1c1ff 16q,#a8a8ff 17q,#a7a7ff 18q,#bbf 19q,#fdfdff 21q,#ffe6e6 22q,#ffd7d7 23q,#ffd3d3 24q,#ffd8d8 25q,#fffbfb 28q,#fbfbff 29q,#f6f6ff 30q,#f5f5ff 32q,#fff 36q,#fffefe 39q,#fff 41q,#fff 125q,#fefeff 128q,#fff 131q,#fffafa 135q,#fffbfb 137q,#fff 139q,#fafaff 141q,#f7f7ff 143q,#f9f9ff 145q,#fff 147q,#fffafa 149q,#fff8f8 151q,#fffafa 153q,#fff 155q,#fcfcff 158q,#fff 162q,#fffcfc 166q,#fff 169q,#fbfbff 173q,#fff 177q,#fffcfc 181q,#fff 185q,#fefeff 189q,#fff 191q,#fff 263q"></i><i style="--g:#fffbfb 0,#fffdfd 1q,#fcfcff 2q,#ececff 4q,#e6e6ff 5q,#e6e6ff 6q,#ededff 7q,#fefeff 8q,#ffe9e9 9q,#ffcece 10q,#ffb8b8 11q,#ffb1b1 12q,#ffbfbf 13q,#ffe2e2 14q,#ececff 15q,#c0c0ff 16q,#a6a6ff 17q,#a5a5ff 18q,#b9b9ff 19q,#fcfcff 21q,#ffe7e7 22q,#ffd7d7 23q,#ffd2d2 24q,#ffd7d7 25q,#ffe2e2 26q,#fffafa 28q,#fcfcff 29q,#f6f6ff 30q,#f5f5ff 32q,#fff 37q,#fffefe 39q,#fff 41q,#fff 125q,#fdfdff 129q,#fff 132q,#fffafa 136q,#fffbfb 138q,#fff 140q,#f7f7ff 144q,#f9f9ff 146q,#fefeff 148q,#fffdfd 149q,#fff9f9 152q,#fffafa 154q,#fff 156q,#fcfcff 160q,#fff 163q,#fffcfc 167q,#fff 170q,#fbfbff 174q,#fff 178q,#fffcfc 182q,#fff 186q,#fff 263q"></i><i style="--g:#fffcfc 0,#fffefe 1q,#fbfbff 2q,#e6e6ff 5q,#e6e6ff 6q,#eef 7q,#fff 8q,#fcc 10q,#ffb7b7 11q,#ffafaf 12q,#ffbebe 13q,#ffe2e2 14q,#ececff 15q,#bfbfff 16q,#a5a5ff 17q,#a4a4ff 18q,#b7b7ff 19q,#fbfbff 21q,#ffe7e7 22q,#ffd7d7 23q,#ffd2d2 24q,#ffd6d6 25q,#ffe1e1 26q,#fff9f9 28q,#fcfcff 29q,#f7f7ff 30q,#f5f5ff 32q,#fff 37q,#fffefe 39q,#fff 41q,#fff 126q,#fdfdff 130q,#fff 133q,#fffafa 136q,#fff9f9 138q,#fffcfc 140q,#fff 141q,#f7f7ff 145q,#f8f8ff 147q,#fdfdff 149q,#fffefe 150q,#fff9f9 153q,#fffbfb 155q,#fff 157q,#fcfcff 161q,#fff 164q,#fffcfc 168q,#fff 171q,#fbfbff 175q,#fff 179q,#fffcfc 183q,#fff 187q,#fff 263q"></i><i style="--g:#fffcfc 0,#fff 1q,#fafaff 2q,#e6e6ff 5q,#e6e6ff 6q,#eef 7q,#fff 8q,#ffcbcb 10q,#ffb5b5 11q,#ffaeae 12q,#ffbdbd 13q,#ffe1e1 14q,#ececff 15q,#bebeff 16q,#a4a4ff 17q,#a2a2ff 18q,#b5b5ff 19q,#fafaff 21q,#ffe8e8 22q,#ffd7d7 23q,#ffd1d1 24q,#ffd5d5 25q,#ffe0e0 26q,#fff8f8 28q,#fdfdff 29q,#f7f7ff 30q,#f4f4ff 32q,#fff 37q,#fffefe 40q,#fff 41q,#fff 127q,#fcfcff 131q,#fff 134q,#fff9f9 137q,#fff8f8 139q,#fffefe 142q,#f7f7ff 146q,#f8f8ff 148q,#fff 151q,#fffcfc 152q,#fffafa 154q,#fffbfb 156q,#fff 158q,#fdfdff 162q,#fff 165q,#fffcfc 169q,#fff 172q,#fbfbff 176q,#fcfcff 178q,#fff 180q,#fffdfd 184q,#fff 188q,#fff 263q"></i><i style="--g:#fffdfd 0,#fff 1q,#e6e6ff 5q,#e6e6ff 6q,#efefff 7q,#fffdfd 8q,#ffc9c9 10q,#ffb3b3 11q,#ffadad 12q,#fbb 13q,#ffe1e1 14q,#ebebff 15q,#bdbdff 16q,#a2a2ff 17q,#a1a1ff 18q,#b3b3ff 19q,#f8f8ff 21q,#ffe9e9 22q,#ffd7d7 23q,#ffd1d1 24q,#ffd5d5 25q,#ffdede 26q,#fff7f7 28q,#fefeff 29q,#f8f8ff 30q,#f4f4ff 32q,#fff 37q,#fffefe 40q,#fff 41q,#fff 127q,#fcfcff 132q,#fff 135q,#fff9f9 138q,#fff8f8 140q,#fffdfd 143q,#fefeff 144q,#f8f8ff 146q,#f7f7ff 148q,#fff 152q,#fffafa 155q,#fffbfb 157q,#fff 159q,#fdfdff 163q,#fff 166q,#fffcfc 170q,#fff 174q,#fbfbff 177q,#fdfdff 180q,#fff 181q,#fffdfd 185q,#fff 189q,#fff 263q"></i><i style="--g:#fffefe 0,#fff 1q,#eaeaff 4q,#e5e5ff 5q,#e7e7ff 6q,#f0f0ff 7q,#fffcfc 8q,#ffc7c7 10q,#ffb2b2 11q,#faa 12q,#fbb 13q,#ffe1e1 14q,#ebebff 15q,#bbf 16q,#a1a1ff 17q,#a0a0ff 18q,#b1b1ff 19q,#f7f7ff 21q,#ffe9e9 22q,#ffd7d7 23q,#ffd0d0 24q,#ffd4d4 25q,#fdd 26q,#fff6f6 28q,#fff 29q,#f8f8ff 30q,#f5f5ff 31q,#f4f4ff 32q,#fff 37q,#fffefe 40q,#fff 41q,#fff 128q,#fbfbff 133q,#fff 136q,#fff9f9 139q,#fff7f7 141q,#fff 145q,#f9f9ff 147q,#f7f7ff 149q,#fafaff 151q,#fff 153q,#fffbfb 156q,#fffcfc 158q,#fff 160q,#fdfdff 163q,#fff 167q,#fffbfb 171q,#fff 175q,#fcfcff 177q,#fbfbff 179q,#fff 183q,#fffdfd 187q,#fff 190q,#fff 263q"></i><i style="--g:#fff 0,#fdfdff 1q,#e5e5ff 5q,#e7e7ff 6q,#f0f0ff 7q,#fffbfb 8q,#ffc6c6 10q,#ffb0b0 11q,#faa 12q,#ffbaba 13q,#ffe0e0 14q,#eaeaff 15q,#bbf 16q,#a0a0ff 17q,#9f9fff 18q,#afafff 19q,#f6f6ff 21q,#ffeaea 22q,#ffd7d7 23q,#ffd0d0 24q,#ffd3d3 25q,#ffdcdc 26q,#fff 29q,#f9f9ff 30q,#f5f5ff 31q,#f4f4ff 32q,#fff 37q,#fffefe 40q,#fff 41q,#fff 129q,#fbfbff 134q,#fff 137q,#fff8f8 140q,#fff6f6 142q,#fff9f9 144q,#fff 146q,#f9f9ff 148q,#f7f7ff 150q,#f9f9ff 152q,#fff 154q,#fffbfb 158q,#fff 161q,#fdfdff 164q,#fff 168q,#fffcfc 170q,#fffbfb 172q,#fff 176q,#fcfcff 178q,#fbfbff 180q,#fff 184q,#fffdfd 188q,#fff 191q,#fff 263q"></i><i style="--g:#fff 0,#fcfcff 1q,#e9e9ff 4q,#e5e5ff 5q,#e7e7ff 6q,#f1f1ff 7q,#fffafa 8q,#ffc4c4 10q,#ffaeae 11q,#ffa8a8 12q,#ffb9b9 13q,#ffe0e0 14q,#eaeaff 15q,#b9b9ff 16q,#9f9fff 17q,#9e9eff 18q,#adadff 19q,#f4f4ff 21q,#ffebeb 22q,#ffd7d7 23q,#ffcfcf 24q,#ffd2d2 25q,#ffdbdb 26q,#fffefe 29q,#f9f9ff 30q,#f5f5ff 31q,#f4f4ff 32q,#fff 37q,#fff 124q,#fffefe 126q,#fff 130q,#fafaff 135q,#fcfcff 137q,#fff 138q,#fff8f8 141q,#fff6f6 143q,#fff8f8 145q,#fff 147q,#fafaff 149q,#f8f8ff 151q,#fff 156q,#fffdfd 157q,#fffcfc 159q,#fff 162q,#fdfdff 165q,#fff 169q,#fffcfc 171q,#fffbfb 173q,#fff 177q,#fcfcff 181q,#fff 185q,#fffefe 189q,#fff 191q,#fff 263q"></i><i style="--g:#fdfdff 0,#fcfcff 1q,#e9e9ff 4q,#e5e5ff 5q,#e7e7ff 6q,#f2f2ff 7q,#fff9f9 8q,#ffc2c2 10q,#ffacac 11q,#ffa6a6 12q,#ffb8b8 13q,#ffe0e0 14q,#eaeaff 15q,#b8b8ff 16q,#9e9eff 17q,#9c9cff 18q,#aaf 19q,#f3f3ff 21q,#ffecec 22q,#ffd7d7 23q,#ffcfcf 24q,#ffd1d1 25q,#ffdada 26q,#fffdfd 29q,#f6f6ff 31q,#f5f5ff 32q,#fff 38q,#fff 125q,#fffdfd 128q,#fff 131q,#f9f9ff 136q,#fdfdff 139q,#fffefe 140q,#fff8f8 142q,#fff6f6 144q,#fff8f8 146q,#fffefe 148q,#fdfdff 149q,#f8f8ff 152q,#fff 157q,#fffcfc 160q,#fff 163q,#fcfcff 166q,#fff 170q,#fffbfb 174q,#fff 178q,#fcfcff 182q,#fff 186q,#fffefe 190q,#fff 191q,#fff 263q"></i><i style="--g:#fcfcff 0,#fbfbff 1q,#e8e8ff 4q,#e5e5ff 5q,#e8e8ff 6q,#f3f3ff 7q,#fff7f7 8q,#ffc0c0 10q,#faa 11q,#ffa5a5 12q,#ffb7b7 13q,#ffdfdf 14q,#e9e9ff 15q,#b7b7ff 16q,#9d9dff 17q,#9b9bff 18q,#a8a8ff 19q,#f1f1ff 21q,#ffeded 22q,#ffd8d8 23q,#ffcfcf 24q,#ffd0d0 25q,#ffd9d9 26q,#fffcfc 29q,#fafaff 30q,#f6f6ff 31q,#f5f5ff 32q,#fff 38q,#fff 125q,#fffdfd 129q,#fff 132q,#f8f8ff 137q,#fafaff 139q,#fff 141q,#fff8f8 143q,#fff5f5 145q,#fff7f7 147q,#fff 150q,#fbfbff 151q,#f9f9ff 153q,#fafaff 155q,#fff 158q,#fffdfd 161q,#fff 164q,#fcfcff 167q,#fff 171q,#fffbfb 175q,#fff 179q,#fcfcff 183q,#fff 187q,#fff 263q"></i><i style="--g:#fbfbff 0,#fafaff 1q,#e8e8ff 4q,#e5e5ff 5q,#e8e8ff 6q,#f4f4ff 7q,#fff6f6 8q,#ffbebe 10q,#ffa8a8 11q,#ffa4a4 12q,#ffb6b6 13q,#ffdfdf 14q,#e9e9ff 15q,#b6b6ff 16q,#9c9cff 17q,#99f 18q,#a6a6ff 19q,#efefff 21q,#fee 22q,#ffd8d8 23q,#ffcece 24q,#ffcfcf 25q,#ffd8d8 26q,#fffbfb 29q,#fbfbff 30q,#f7f7ff 31q,#f5f5ff 33q,#fff 38q,#fff 126q,#fffdfd 130q,#fff 133q,#f8f8ff 138q,#f9f9ff 140q,#fff 142q,#fff9f9 144q,#fff5f5 146q,#fff7f7 148q,#fff 151q,#fafaff 154q,#fafaff 156q,#fff 159q,#fffdfd 162q,#fff 165q,#fcfcff 168q,#fff 172q,#fffbfb 176q,#fffdfd 179q,#fff 180q,#fcfcff 184q,#fff 188q,#fff 263q"></i><i style="--g:#fafaff 0,#f9f9ff 1q,#e7e7ff 4q,#e5e5ff 5q,#e8e8ff 6q,#f4f4ff 7q,#fff5f5 8q,#ffbcbc 10q,#ffa7a7 11q,#ffa3a3 12q,#ffb4b4 13q,#ffdfdf 14q,#e8e8ff 15q,#b4b4ff 16q,#9b9bff 17q,#99f 18q,#a4a4ff 19q,#eef 21q,#ffefef 22q,#ffd8d8 23q,#ffcece 24q,#ffcfcf 25q,#ffd6d6 26q,#fffafa 29q,#fcfcff 30q,#f7f7ff 31q,#f5f5ff 33q,#fff 38q,#fff 126q,#fffcfc 131q,#fff 134q,#f7f7ff 139q,#f8f8ff 141q,#fff 143q,#fff7f7 146q,#fff6f6 148q,#fff9f9 150q,#fff 152q,#fbfbff 154q,#fafaff 156q,#fff 160q,#fffdfd 162q,#fff 165q,#fbfbff 169q,#fff 173q,#fffbfb 177q,#fff 182q,#fdfdff 186q,#fff 190q,#fff 263q"></i><i style="--g:#f9f9ff 0,#f8f8ff 1q,#e7e7ff 4q,#e5e5ff 5q,#e9e9ff 6q,#f5f5ff 7q,#fff3f3 8q,#fbb 10q,#ffa5a5 11q,#ffa2a2 12q,#ffb3b3 13q,#ffdede 14q,#e8e8ff 15q,#b3b3ff 16q,#99f 17q,#99f 18q,#a3a3ff 19q,#ececff 21q,#fff0f0 22q,#ffd9d9 23q,#ffcece 24q,#ffcece 25q,#ffd5d5 26q,#fff9f9 29q,#fdfdff 30q,#f7f7ff 31q,#f5f5ff 33q,#fff 38q,#fff 127q,#fffbfb 132q,#fffdfd 134q,#fff 135q,#f6f6ff 140q,#f8f8ff 142q,#fdfdff 144q,#fffdfd 145q,#fff7f7 147q,#fff6f6 149q,#fffefe 153q,#fefeff 154q,#fbfbff 157q,#fff 161q,#fffdfd 163q,#fff 166q,#fbfbff 170q,#fcfcff 172q,#fff 174q,#fffbfb 178q,#fffbfb 180q,#fff 183q,#fdfdff 187q,#fff 191q,#fff 263q"></i><i style="--g:#f8f8ff 0,#f7f7ff 1q,#e6e6ff 4q,#e5e5ff 5q,#e9e9ff 6q,#f6f6ff 7q,#fff2f2 8q,#ffb8b8 10q,#ffa3a3 11q,#ffa1a1 12q,#ffb2b2 13q,#ffdede 14q,#e7e7ff 15q,#b2b2ff 16q,#99f 17q,#9696ff 18q,#a1a1ff 19q,#c2c2ff 20q,#eaeaff 21q,#fff1f1 22q,#ffd9d9 23q,#ffcece 24q,#ffcdcd 25q,#ffd4d4 26q,#fff8f8 29q,#fdfdff 30q,#f8f8ff 31q,#f5f5ff 33q,#fff 38q,#fff 61q,#fffefe 64q,#fff 66q,#fff 128q,#fffafa 133q,#fffefe 136q,#fefeff 137q,#f7f7ff 140q,#f5f5ff 142q,#f9f9ff 144q,#fff 146q,#fff8f8 148q,#fff6f6 150q,#fff8f8 152q,#fff 155q,#fcfcff 158q,#fff 161q,#fffdfd 164q,#fff 167q,#fbfbff 171q,#fbfbff 173q,#fff 175q,#fffbfb 180q,#fff 184q,#fdfdff 188q,#fff 191q,#fff 263q"></i><i style="--g:#f7f7ff 0,#f5f5ff 1q,#e6e6ff 4q,#e5e5ff 5q,#eaeaff 6q,#f7f7ff 7q,#fff0f0 8q,#ffb6b6 10q,#ffa2a2 11q,#ffa0a0 12q,#ffb1b1 13q,#fdd 14q,#e7e7ff 15q,#b0b0ff 16q,#99f 17q,#9595ff 18q,#a0a0ff 19q,#c0c0ff 20q,#e8e8ff 21q,#fff2f2 22q,#ffdada 23q,#ffcdcd 24q,#fcc 25q,#ffd3d3 26q,#fff7f7 29q,#fff 30q,#f8f8ff 31q,#f5f5ff 33q,#fff 39q,#fff 61q,#fffefe 64q,#fff 67q,#fff 124q,#fefeff 125q,#fff 129q,#fffafa 134q,#fffbfb 136q,#fff 138q,#f6f6ff 141q,#f5f5ff 143q,#f8f8ff 145q,#fff 147q,#fff9f9 149q,#fff7f7 151q,#fff8f8 153q,#fff 156q,#fcfcff 159q,#fff 162q,#fffdfd 165q,#fff 168q,#fbfbff 171q,#fafaff 173q,#fff 177q,#fffbfb 181q,#fff 186q,#fefeff 190q,#fff 192q,#fff 263q"></i><i style="--g:#f6f6ff 0,#f4f4ff 1q,#e6e6ff 4q,#e5e5ff 5q,#eaeaff 6q,#f8f8ff 7q,#ffefef 8q,#ffb4b4 10q,#ffa1a1 11q,#ff9f9f 12q,#ffb0b0 13q,#fdd 14q,#e6e6ff 15q,#afafff 16q,#9797ff 17q,#9494ff 18q,#9e9eff 19q,#bebeff 20q,#e6e6ff 21q,#fff4f4 22q,#ffdada 23q,#ffcdcd 24q,#fcc 25q,#ffd2d2 26q,#fff6f6 29q,#fff 30q,#f9f9ff 31q,#f5f5ff 33q,#fff 39q,#fff 61q,#fffdfd 64q,#fff 68q,#fff 124q,#fefeff 126q,#fff 130q,#fff9f9 135q,#fffafa 137q,#fff 139q,#f6f6ff 142q,#f4f4ff 144q,#f7f7ff 146q,#fdfdff 148q,#fffdfd 149q,#fff7f7 152q,#fff9f9 154q,#fff 157q,#fdfdff 160q,#fff 163q,#fffdfd 166q,#fff 169q,#fafaff 174q,#fff 178q,#fffbfb 182q,#fff 187q,#fefeff 191q,#fff 192q,#fff 263q"></i><i style="--g:#f5f5ff 0,#f3f3ff 1q,#e5e5ff 4q,#e5e5ff 5q,#ebebff 6q,#f9f9ff 7q,#ffeded 8q,#ffb2b2 10q,#ffa0a0 11q,#ff9e9e 12q,#ffafaf 13q,#fdd 14q,#e5e5ff 15q,#aeaeff 16q,#9696ff 17q,#9393ff 18q,#9d9dff 19q,#bbf 20q,#e4e4ff 21q,#fff5f5 22q,#ffdbdb 23q,#ffcdcd 24q,#ffcbcb 25q,#ffdcdc 27q,#fff 30q,#fafaff 31q,#f5f5ff 33q,#fff 39q,#fff 61q,#fffdfd 65q,#fff 69q,#fff 124q,#fdfdff 128q,#fff 131q,#fff8f8 136q,#fff9f9 138q,#fffefe 140q,#fdfdff 141q,#f7f7ff 143q,#f4f4ff 145q,#f6f6ff 147q,#fff 150q,#fff9f9 152q,#fff8f8 154q,#fff 158q,#fefeff 161q,#fff 164q,#fffcfc 167q,#fff 170q,#fafaff 175q,#fbfbff 177q,#fff 179q,#fffcfc 183q,#fff 188q,#fff 263q"></i><i style="--g:#f4f4ff 0,#f2f2ff 1q,#e5e5ff 4q,#e5e5ff 5q,#ebebff 6q,#fbfbff 7q,#ffecec 8q,#ffb0b0 10q,#ff9f9f 11q,#ff9d9d 12q,#ffaeae 13q,#fdd 14q,#e5e5ff 15q,#acacff 16q,#9595ff 17q,#9292ff 18q,#9b9bff 19q,#b9b9ff 20q,#e2e2ff 21q,#fff6f6 22q,#ffdcdc 23q,#ffcdcd 24q,#ffcaca 25q,#ffd0d0 26q,#fff3f3 29q,#fffdfd 30q,#f7f7ff 32q,#f5f5ff 33q,#fff 39q,#fff 61q,#fffdfd 65q,#fff 69q,#fff 125q,#fdfdff 129q,#fff 132q,#fff8f8 136q,#fff7f7 138q,#fffdfd 141q,#fefeff 142q,#f7f7ff 144q,#f4f4ff 146q,#f6f6ff 148q,#fff 151q,#fffafa 153q,#fff9f9 155q,#fff 159q,#fff 164q,#fffcfc 168q,#fff 172q,#fbfbff 174q,#fafaff 176q,#fff 181q,#fffcfc 185q,#fff 189q,#fff 263q"></i><i style="--g:#f2f2ff 0,#f1f1ff 1q,#e4e4ff 4q,#e5e5ff 5q,#ececff 6q,#fcfcff 7q,#ffeaea 8q,#ffaeae 10q,#ff9d9d 11q,#ff9c9c 12q,#ffadad 13q,#ffdcdc 14q,#e4e4ff 15q,#aaf 16q,#9494ff 17q,#9191ff 18q,#99f 19q,#b6b6ff 20q,#e0e0ff 21q,#fff8f8 22q,#fdd 23q,#ffcdcd 24q,#ffcaca 25q,#ffdada 27q,#fff2f2 29q,#fffcfc 30q,#fbfbff 31q,#f6f6ff 33q,#fff 39q,#fff 62q,#fffdfd 66q,#fff 70q,#fff 125q,#fcfcff 130q,#fff 133q,#fff7f7 137q,#fff6f6 139q,#fff9f9 141q,#fff 143q,#f8f8ff 145q,#f4f4ff 147q,#f5f5ff 149q,#fefeff 152q,#fffefe 153q,#fffafa 156q,#fff 160q,#fff 165q,#fffbfb 169q,#fff 173q,#fafaff 177q,#fbfbff 179q,#fff 182q,#fffcfc 186q,#fff 190q,#fff 263q"></i><i style="--g:#f1f1ff 0,#f0f0ff 1q,#e4e4ff 4q,#e5e5ff 5q,#ededff 6q,#fdfdff 7q,#ffe8e8 8q,#ffabab 10q,#ff9c9c 11q,#ff9b9b 12q,#ffacac 13q,#ffdcdc 14q,#e4e4ff 15q,#aaf 16q,#9393ff 17q,#8f8fff 18q,#99f 19q,#b4b4ff 20q,#dedeff 21q,#fff9f9 22q,#fdd 23q,#ffcdcd 24q,#ffc9c9 25q,#ffcece 26q,#ffd8d8 27q,#fff1f1 29q,#fffbfb 30q,#fcfcff 31q,#f7f7ff 32q,#f6f6ff 34q,#fff 39q,#fff 62q,#fffdfd 66q,#fff 70q,#fff 126q,#fbfbff 131q,#fff 135q,#fff7f7 138q,#fff5f5 140q,#fff7f7 142q,#fffefe 144q,#fcfcff 145q,#f6f6ff 147q,#f4f4ff 149q,#f7f7ff 151q,#fff 154q,#fffbfb 157q,#fff 161q,#fff 165q,#fffbfb 170q,#fff 174q,#fafaff 178q,#fcfcff 181q,#fff 183q,#fffdfd 187q,#fff 191q,#fff 263q"></i><i style="--g:#f0f0ff 0,#efefff 1q,#e4e4ff 4q,#e5e5ff 5q,#eef 6q,#fff 7q,#ffe6e6 8q,#faa 10q,#ff9b9b 11q,#f99 12q,#faa 13q,#ffdcdc 14q,#e3e3ff 15q,#a8a8ff 16q,#9292ff 17q,#8e8eff 18q,#9797ff 19q,#b1b1ff 20q,#dcdcff 21q,#fffbfb 22q,#ffdede 23q,#ffcece 24q,#ffc9c9 25q,#ffcdcd 26q,#ffd7d7 27q,#fffafa 30q,#fcfcff 31q,#f8f8ff 32q,#f6f6ff 34q,#fff 40q,#fff 63q,#fffdfd 66q,#fff 70q,#fff 127q,#fafaff 132q,#fbfbff 134q,#fff 136q,#fff7f7 139q,#fff4f4 141q,#fff6f6 143q,#fffcfc 145q,#fefeff 146q,#f7f7ff 148q,#f5f5ff 150q,#f7f7ff 152q,#fff 155q,#fffcfc 158q,#fff 161q,#fff 166q,#fffafa 171q,#fffbfb 173q,#fff 175q,#fafaff 180q,#fff 185q,#fffdfd 189q,#fff 192q,#fff 263q"></i><i style="--g:#efefff 0,#e3e3ff 4q,#e5e5ff 5q,#eef 6q,#fff 7q,#ffe4e4 8q,#ffa7a7 10q,#f99 11q,#f99 12q,#faa 13q,#ffdbdb 14q,#e3e3ff 15q,#a7a7ff 16q,#9191ff 17q,#8d8dff 18q,#9696ff 19q,#aeaeff 20q,#dadaff 21q,#fffdfd 22q,#ffdfdf 23q,#ffcece 24q,#ffc8c8 25q,#fcc 26q,#ffd6d6 27q,#fff9f9 30q,#fdfdff 31q,#f9f9ff 32q,#f6f6ff 34q,#fff 40q,#fff 63q,#fffefe 66q,#fff 69q,#fff 128q,#fafaff 133q,#fafaff 135q,#fff 137q,#fff7f7 140q,#fff3f3 142q,#fff5f5 144q,#fff 147q,#f8f8ff 149q,#f6f6ff 151q,#f7f7ff 153q,#fff 157q,#fffdfd 159q,#fff 162q,#fefeff 165q,#fff 167q,#fffafa 172q,#fff 177q,#fcfcff 179q,#fbfbff 181q,#fff 186q,#fffefe 190q,#fff 193q,#fff 263q"></i><i style="--g:#ededff 0,#e3e3ff 4q,#e6e6ff 5q,#efefff 6q,#fffdfd 7q,#ffe3e3 8q,#ffa4a4 10q,#f99 11q,#f99 12q,#ffa8a8 13q,#ffdbdb 14q,#e2e2ff 15q,#a5a5ff 16q,#9090ff 17q,#8c8cff 18q,#9494ff 19q,#ababff 20q,#fff 22q,#ffe0e0 23q,#ffcece 24q,#ffc8c8 25q,#ffcbcb 26q,#ffd4d4 27q,#fff8f8 30q,#fff 31q,#f9f9ff 32q,#f6f6ff 34q,#fff 40q,#fff 64q,#fffefe 66q,#fff 68q,#fff 123q,#fffefe 125q,#fff 129q,#f9f9ff 133q,#f8f8ff 135q,#fdfdff 138q,#fffdfd 139q,#fff4f4 142q,#fff3f3 144q,#fff6f6 146q,#fffdfd 148q,#fdfdff 149q,#f8f8ff 151q,#f7f7ff 153q,#fff 158q,#fff 163q,#fdfdff 166q,#fff 168q,#fffafa 173q,#fffafa 175q,#fff 178q,#fbfbff 182q,#fff 187q,#fffefe 191q,#fff 193q,#fff 263q"></i><i style="--g:#ececff 0,#e3e3ff 4q,#e6e6ff 5q,#f0f0ff 6q,#fffbfb 7q,#ffe1e1 8q,#ffa3a3 10q,#ff9797 11q,#ff9797 12q,#ffa7a7 13q,#ffdada 14q,#e2e2ff 15q,#a4a4ff 16q,#8f8fff 17q,#8b8bff 18q,#9393ff 19q,#a9a9ff 20q,#fefeff 22q,#ffe1e1 23q,#ffcece 24q,#ffc7c7 25q,#ffcaca 26q,#ffd3d3 27q,#fff7f7 30q,#fff 31q,#fafaff 32q,#f6f6ff 34q,#fff 40q,#fffefe 65q,#fff 66q,#fff 123q,#fffdfd 126q,#fff 130q,#f9f9ff 134q,#f7f7ff 136q,#fafaff 138q,#fff 140q,#fff5f5 143q,#fff2f2 145q,#fff5f5 147q,#fff 150q,#f9f9ff 152q,#f8f8ff 154q,#fff 159q,#fff 163q,#fdfdff 166q,#fff 170q,#fffbfb 172q,#fff9f9 175q,#fffbfb 177q,#fff 179q,#fbfbff 184q,#fff 189q,#fff 263q"></i><i style="--g:#ebebff 0,#e3e3ff 4q,#e6e6ff 5q,#f1f1ff 6q,#fffafa 7q,#ffdfdf 8q,#ffa1a1 10q,#ff9696 11q,#ff9696 12q,#ffa5a5 13q,#ffdada 14q,#e1e1ff 15q,#a3a3ff 16q,#8e8eff 17q,#8a8aff 18q,#9191ff 19q,#a6a6ff 20q,#fcfcff 22q,#ffe2e2 23q,#ffcfcf 24q,#ffc7c7 25q,#ffc9c9 26q,#ffd2d2 27q,#fff5f5 30q,#fffefe 31q,#f7f7ff 33q,#f7f7ff 34q,#fff 40q,#fff 61q,#fffefe 64q,#fff 67q,#fff 124q,#fffdfd 128q,#fff 131q,#f6f6ff 137q,#f8f8ff 139q,#fff 141q,#fff5f5 144q,#fff2f2 146q,#fff4f4 148q,#fffefe 151q,#fdfdff 152q,#f9f9ff 155q,#fff 161q,#fff 163q,#fcfcff 167q,#fff 171q,#fffafa 174q,#fff9f9 176q,#fff 181q,#fcfcff 185q,#fff 190q,#fff 263q"></i><i style="--g:#e9e9ff 0,#e3e3ff 3q,#e2e2ff 4q,#e7e7ff 5q,#f2f2ff 6q,#fff8f8 7q,#fdd 8q,#fbb 9q,#ffa0a0 10q,#ff9595 11q,#ff9595 12q,#ffa4a4 13q,#ffdada 14q,#e0e0ff 15q,#a2a2ff 16q,#8d8dff 17q,#88f 18q,#9090ff 19q,#a3a3ff 20q,#fafaff 22q,#ffe3e3 23q,#ffcfcf 24q,#ffc7c7 25q,#ffc8c8 26q,#ffd1d1 27q,#fff4f4 30q,#fffdfd 31q,#f8f8ff 33q,#f7f7ff 34q,#fff 40q,#fff 59q,#fffdfd 63q,#fff 67q,#fff 124q,#fffcfc 129q,#fff 132q,#f5f5ff 138q,#f7f7ff 140q,#fdfdff 142q,#fffefe 143q,#fff6f6 145q,#fff2f2 147q,#fff4f4 149q,#fff 153q,#fcfcff 154q,#fafaff 156q,#fff 162q,#fbfbff 168q,#fcfcff 170q,#fff 172q,#fff9f9 177q,#fffbfb 180q,#fff 182q,#fcfcff 186q,#fff 191q,#fff 263q"></i><i style="--g:#e8e8ff 0,#e2e2ff 3q,#e2e2ff 4q,#e7e7ff 5q,#f3f3ff 6q,#fff7f7 7q,#ffdada 8q,#ffb9b9 9q,#ff9e9e 10q,#ff9494 11q,#ff9494 12q,#ffa4a4 13q,#ffd9d9 14q,#e0e0ff 15q,#a1a1ff 16q,#8c8cff 17q,#88f 18q,#8f8fff 19q,#a2a2ff 20q,#f8f8ff 22q,#ffe5e5 23q,#ffcfcf 24q,#ffc7c7 25q,#ffc8c8 26q,#ffd0d0 27q,#fff3f3 30q,#fffcfc 31q,#fcfcff 32q,#f7f7ff 34q,#fff 41q,#fff 58q,#fffdfd 63q,#fff 68q,#fff 125q,#fffbfb 130q,#fff 134q,#f7f7ff 137q,#f4f4ff 140q,#f7f7ff 142q,#fff 144q,#fff5f5 147q,#fff3f3 149q,#fff6f6 151q,#fff 154q,#fbfbff 158q,#fff 162q,#fff 164q,#fafaff 169q,#fbfbff 171q,#fff 174q,#fffbfb 176q,#fff9f9 178q,#fffafa 180q,#fff 184q,#fdfdff 188q,#fff 192q,#fff 263q"></i><i style="--g:#e7e7ff 0,#e2e2ff 4q,#e7e7ff 5q,#f4f4ff 6q,#fff5f5 7q,#ffb7b7 9q,#ff9d9d 10q,#ff9393 11q,#ff9494 12q,#ffa3a3 13q,#ffd9d9 14q,#dfdfff 15q,#a0a0ff 16q,#8b8bff 17q,#8686ff 18q,#8d8dff 19q,#a0a0ff 20q,#f6f6ff 22q,#ffe6e6 23q,#ffd0d0 24q,#ffc6c6 25q,#ffc7c7 26q,#ffcfcf 27q,#fff2f2 30q,#fffbfb 31q,#fdfdff 32q,#f9f9ff 33q,#f7f7ff 35q,#fff 41q,#fff 58q,#fffcfc 63q,#fff 69q,#fefeff 74q,#fff 76q,#fffefe 92q,#fff 94q,#fff 126q,#fffbfb 131q,#fffbfb 133q,#fff 135q,#f4f4ff 139q,#f2f2ff 141q,#f6f6ff 143q,#fdfdff 145q,#fffdfd 146q,#fff6f6 148q,#fff3f3 150q,#fff5f5 152q,#fff 156q,#fdfdff 159q,#fff 162q,#fff 165q,#fafaff 171q,#fff 175q,#fffafa 178q,#fffafa 180q,#fff 185q,#fdfdff 189q,#fff 193q,#fff 263q"></i><i style="--g:#e5e5ff 0,#e2e2ff 4q,#e8e8ff 5q,#f5f5ff 6q,#fff4f4 7q,#ffb4b4 9q,#ff9c9c 10q,#ff9292 11q,#ff9393 12q,#ffa2a2 13q,#ffd9d9 14q,#dedeff 15q,#9f9fff 16q,#8a8aff 17q,#8585ff 18q,#8c8cff 19q,#9e9eff 20q,#f3f3ff 22q,#ffe8e8 23q,#ffd1d1 24q,#ffc6c6 25q,#ffc6c6 26q,#ffcdcd 27q,#fff1f1 30q,#fffafa 31q,#fdfdff 32q,#f9f9ff 33q,#f7f7ff 35q,#fff 41q,#fff 58q,#fffbfb 64q,#fff 69q,#fefeff 74q,#fff 89q,#fffdfd 93q,#fff 96q,#fff 127q,#fffbfb 130q,#fff9f9 133q,#fffefe 136q,#fdfdff 137q,#f4f4ff 140q,#f1f1ff 142q,#f4f4ff 144q,#fff 147q,#fff8f8 149q,#fff4f4 151q,#fff6f6 153q,#fff 158q,#fefeff 160q,#fff 166q,#f9f9ff 172q,#fff 177q,#fffbfb 179q,#fffafa 181q,#fff 187q,#fefeff 191q,#fff 194q,#fff 263q"></i><i style="--g:#e4e4ff 0,#e2e2ff 4q,#e8e8ff 5q,#f6f6ff 6q,#fff2f2 7q,#ffb2b2 9q,#f99 10q,#ff9191 11q,#ff9292 12q,#ffa2a2 13q,#ffd9d9 14q,#ddf 15q,#9e9eff 16q,#88f 17q,#8484ff 18q,#8b8bff 19q,#9c9cff 20q,#f1f1ff 22q,#ffe9e9 23q,#ffd2d2 24q,#ffc6c6 25q,#ffc6c6 26q,#fcc 27q,#fff9f9 31q,#fff 32q,#fafaff 33q,#f7f7ff 35q,#fff 41q,#fff 58q,#fffbfb 64q,#fff 70q,#fefeff 75q,#fff 78q,#fff 90q,#fffdfd 94q,#fff 98q,#fff 123q,#fefeff 124q,#fff 128q,#fff8f8 134q,#fffafa 136q,#fff 138q,#f4f4ff 141q,#f1f1ff 143q,#f3f3ff 145q,#fdfdff 148q,#fffdfd 149q,#fff7f7 151q,#fff5f5 153q,#fff 159q,#fffefe 165q,#fff 167q,#f9f9ff 173q,#fafaff 175q,#fff 178q,#fffafa 182q,#fff 188q,#fefeff 192q,#fff 193q,#fff 263q"></i><i style="--g:#e2e2ff 0,#dfdfff 3q,#e1e1ff 4q,#e9e9ff 5q,#f7f7ff 6q,#fff0f0 7q,#ffafaf 9q,#f99 10q,#ff9090 11q,#ff9191 12q,#ffa1a1 13q,#ffd8d8 14q,#ddf 15q,#9d9dff 16q,#88f 17q,#8383ff 18q,#88f 19q,#99f 20q,#efefff 22q,#ffebeb 23q,#ffd2d2 24q,#ffc6c6 25q,#ffc5c5 26q,#fcc 27q,#fff8f8 31q,#fff 32q,#fafaff 33q,#f8f8ff 35q,#fff 41q,#fefeff 54q,#fff 59q,#fffbfb 62q,#fffafa 65q,#fff 71q,#fefeff 75q,#fff 90q,#fffdfd 95q,#fff 99q,#fff 122q,#fefeff 125q,#fff 129q,#fff7f7 135q,#fff8f8 137q,#fffefe 139q,#fcfcff 140q,#f2f2ff 143q,#f0f0ff 145q,#f4f4ff 147q,#fff 150q,#fff9f9 152q,#fff7f7 154q,#fffdfd 160q,#fffdfd 166q,#fff 168q,#fff 169q,#f8f8ff 174q,#f9f9ff 176q,#fff 180q,#fffcfc 182q,#fffbfb 184q,#fff 189q,#fff 263q"></i><i style="--g:#e1e1ff 0,#dfdfff 3q,#e1e1ff 4q,#e9e9ff 5q,#f8f8ff 6q,#fee 7q,#ffadad 9q,#ff9797 10q,#ff8f8f 11q,#ff9090 12q,#ffa0a0 13q,#ffd8d8 14q,#dcdcff 15q,#9c9cff 16q,#88f 17q,#8282ff 18q,#88f 19q,#99f 20q,#bebeff 21q,#ececff 22q,#ffeded 23q,#ffd3d3 24q,#ffc7c7 25q,#ffc5c5 26q,#ffcaca 27q,#fff7f7 31q,#fff 32q,#f9f9ff 34q,#f8f8ff 35q,#fff 42q,#fff 52q,#fefeff 54q,#fff 59q,#fffafa 65q,#fffbfb 68q,#fff 71q,#fefeff 76q,#fff 79q,#fff 91q,#fffdfd 96q,#fff 101q,#fff 123q,#fdfdff 126q,#fff 130q,#fff5f5 136q,#fff7f7 138q,#fff 141q,#f6f6ff 143q,#f0f0ff 146q,#f3f3ff 148q,#fdfdff 151q,#fffefe 152q,#fff9f9 154q,#fff8f8 156q,#fffdfd 161q,#fffcfc 167q,#fff 170q,#f9f9ff 174q,#f8f8ff 176q,#fff 181q,#fffbfb 185q,#fff 191q,#fff 263q"></i><i style="--g:#e0e0ff 0,#dedeff 3q,#e1e1ff 4q,#eaeaff 5q,#f9f9ff 6q,#ffecec 7q,#faa 9q,#ff9696 10q,#ff8d8d 11q,#ff8f8f 12q,#ff9f9f 13q,#ffd8d8 14q,#dbdbff 15q,#9b9bff 16q,#8686ff 17q,#8181ff 18q,#88f 19q,#9797ff 20q,#bbf 21q,#eaeaff 22q,#fee 23q,#ffd4d4 24q,#ffc7c7 25q,#ffc4c4 26q,#ffc9c9 27q,#fff6f6 31q,#fffdfd 32q,#f9f9ff 34q,#f8f8ff 35q,#fff 42q,#fff 51q,#fdfdff 55q,#fff 60q,#fffbfb 63q,#fffafa 66q,#fff 72q,#fefeff 77q,#fff 92q,#fffdfd 97q,#fff 102q,#fff 123q,#fdfdff 128q,#fff 131q,#fff5f5 136q,#fff4f4 138q,#fff7f7 140q,#fffefe 142q,#fcfcff 143q,#f4f4ff 145q,#f0f0ff 147q,#f5f5ff 150q,#fff 153q,#fffbfb 155q,#fffafa 157q,#fffcfc 162q,#fffbfb 168q,#fff 172q,#f9f9ff 175q,#f8f8ff 177q,#fff 183q,#fffcfc 187q,#fff 192q,#fff 263q"></i><i style="--g:#dedeff 0,#ddf 3q,#e1e1ff 4q,#eaeaff 5q,#fbfbff 6q,#ffeaea 7q,#ffa7a7 9q,#ff9595 10q,#ff8c8c 11q,#ff8e8e 12q,#ff9f9f 13q,#ffd7d7 14q,#dadaff 15q,#9a9aff 16q,#8585ff 17q,#8080ff 18q,#8585ff 19q,#9595ff 20q,#b8b8ff 21q,#e7e7ff 22q,#fff0f0 23q,#ffd5d5 24q,#ffc7c7 25q,#ffc4c4 26q,#ffd2d2 28q,#fff4f4 31q,#fffcfc 32q,#fcfcff 33q,#f8f8ff 35q,#fff 42q,#fff 51q,#fdfdff 55q,#fff 60q,#fffafa 66q,#fff 72q,#fefeff 87q,#fff 94q,#fffdfd 98q,#fff 103q,#fff 124q,#fcfcff 129q,#fff 133q,#fff4f4 137q,#fff2f2 139q,#fff5f5 141q,#fff 144q,#f6f6ff 146q,#f1f1ff 149q,#f4f4ff 151q,#fff 155q,#fffbfb 158q,#fffdfd 163q,#fffafa 169q,#fffbfb 171q,#fff 173q,#f8f8ff 178q,#fafaff 181q,#fff 184q,#fffdfd 188q,#fff 193q,#fff 263q"></i><i style="--g:#ddf 0,#ddf 3q,#e1e1ff 4q,#ebebff 5q,#fcfcff 6q,#ffe8e8 7q,#ffa4a4 9q,#ff9393 10q,#ff8d8d 12q,#ff9e9e 13q,#ffd7d7 14q,#dadaff 15q,#99f 16q,#8484ff 17q,#7f7fff 18q,#9393ff 20q,#b5b5ff 21q,#e4e4ff 22q,#fff2f2 23q,#ffd6d6 24q,#ffc7c7 25q,#ffc3c3 26q,#ffd1d1 28q,#fff3f3 31q,#fffbfb 32q,#fdfdff 33q,#fafaff 34q,#f8f8ff 36q,#fff 42q,#fff 51q,#fdfdff 56q,#fff 61q,#fffbfb 66q,#fff 73q,#fefeff 88q,#fff 95q,#fffdfd 99q,#fff 104q,#fff 125q,#fbfbff 130q,#fbfbff 132q,#fff 134q,#fff4f4 138q,#fff1f1 140q,#fff3f3 142q,#fffefe 145q,#fcfcff 146q,#f5f5ff 148q,#f2f2ff 150q,#f4f4ff 152q,#fff 157q,#fffdfd 159q,#fffdfd 164q,#fff9f9 170q,#fffafa 172q,#fff 175q,#fbfbff 177q,#f9f9ff 180q,#fff 186q,#fffdfd 190q,#fff 194q,#fff 263q"></i><i style="--g:#dcdcff 0,#ddf 3q,#e1e1ff 4q,#ececff 5q,#fefeff 6q,#ffe6e6 7q,#ffa3a3 9q,#ff9292 10q,#ff8c8c 12q,#ff9d9d 13q,#ffd7d7 14q,#d9d9ff 15q,#99f 16q,#8383ff 17q,#7e7eff 18q,#9292ff 20q,#b1b1ff 21q,#e2e2ff 22q,#fff4f4 23q,#ffd8d8 24q,#ffc8c8 25q,#ffc3c3 26q,#ffd0d0 28q,#fff2f2 31q,#fffafa 32q,#fff 33q,#fbfbff 34q,#f9f9ff 36q,#fff 42q,#fefeff 56q,#fff 61q,#fffbfb 66q,#fff 73q,#fff 87q,#fefeff 90q,#fff 93q,#fffefe 101q,#fff 104q,#fff 125q,#fafaff 132q,#fdfdff 135q,#fffefe 136q,#fff1f1 140q,#fff0f0 142q,#fff3f3 144q,#fff 147q,#f7f7ff 149q,#f3f3ff 152q,#fff 159q,#fff 164q,#fff8f8 171q,#fffafa 174q,#fff 176q,#f9f9ff 181q,#fbfbff 184q,#fff 187q,#fffefe 191q,#fff 194q,#fff 263q"></i><i style="--g:#dadaff 0,#dcdcff 3q,#e2e2ff 4q,#ededff 5q,#fff 6q,#ffe4e4 7q,#ffa1a1 9q,#ff9191 10q,#ff8b8b 12q,#ff9c9c 13q,#ffd6d6 14q,#d8d8ff 15q,#99f 16q,#8282ff 17q,#7d7dff 18q,#9090ff 20q,#aeaeff 21q,#dfdfff 22q,#fff6f6 23q,#ffd9d9 24q,#ffc8c8 25q,#ffc3c3 26q,#ffcece 28q,#fff0f0 31q,#fff9f9 32q,#fff 33q,#fbfbff 34q,#f9f9ff 36q,#fff 43q,#fff 61q,#fffcfc 66q,#fff 72q,#fff 89q,#fefeff 92q,#fff 94q,#fff 126q,#f8f8ff 133q,#fafaff 135q,#fff 137q,#fff2f2 141q,#ffefef 143q,#fff1f1 145q,#fffdfd 148q,#fdfdff 149q,#f6f6ff 151q,#f4f4ff 153q,#fff 162q,#fff 166q,#fff9f9 171q,#fff8f8 173q,#fff9f9 175q,#fff 178q,#fafaff 181q,#fafaff 183q,#fff 189q,#fff 263q"></i><i style="--g:#d9d9ff 0,#dcdcff 3q,#e2e2ff 4q,#ededff 5q,#fffdfd 6q,#ffe2e2 7q,#ff9f9f 9q,#ff8f8f 10q,#ff8a8a 12q,#ff9b9b 13q,#ffd6d6 14q,#d8d8ff 15q,#9797ff 16q,#8181ff 17q,#7c7cff 18q,#8e8eff 20q,#aaf 21q,#dcdcff 22q,#fff8f8 23q,#ffdada 24q,#ffc9c9 25q,#ffc2c2 26q,#ffcdcd 28q,#ffefef 31q,#fff 33q,#fafaff 35q,#f9f9ff 36q,#fff 43q,#fff 60q,#fffcfc 65q,#fff 71q,#fff 91q,#fefeff 94q,#fff 97q,#fff 122q,#fffefe 124q,#fff 128q,#f6f6ff 134q,#f8f8ff 136q,#fdfdff 138q,#fffefe 139q,#fff2f2 142q,#fee 144q,#fff2f2 147q,#fff 150q,#f7f7ff 153q,#f6f6ff 155q,#fbfbff 160q,#fff 167q,#fff 168q,#fffafa 171q,#fff7f7 174q,#fff9f9 176q,#fff 180q,#fbfbff 182q,#fafaff 184q,#fff 190q,#fff 263q"></i><i style="--g:#d8d8ff 0,#d9d9ff 2q,#e2e2ff 4q,#eef 5q,#fffcfc 6q,#ffe0e0 7q,#ff9d9d 9q,#ff8e8e 10q,#ff8a8a 12q,#ff9b9b 13q,#ffd5d5 14q,#d7d7ff 15q,#9696ff 16q,#8181ff 17q,#7a7aff 18q,#8d8dff 20q,#a7a7ff 21q,#d9d9ff 22q,#fffbfb 23q,#ffdbdb 24q,#ffc9c9 25q,#ffc2c2 26q,#fcc 28q,#fee 31q,#fffdfd 33q,#fdfdff 34q,#f9f9ff 36q,#fff 43q,#fff 58q,#fffcfc 64q,#fff 70q,#fff 93q,#fefeff 97q,#fff 100q,#fff 122q,#fffefe 125q,#fff 129q,#f6f6ff 134q,#f5f5ff 136q,#f7f7ff 138q,#fff 140q,#fff0f0 144q,#fee 146q,#fff1f1 148q,#fff 152q,#f9f9ff 154q,#f7f7ff 156q,#fcfcff 167q,#fff 170q,#fffbfb 172q,#fff7f7 175q,#fff9f9 178q,#fff 181q,#fbfbff 186q,#fff 191q,#fff 263q"></i><i style="--g:#d7d7ff 0,#d8d8ff 2q,#e2e2ff 4q,#efefff 5q,#fffafa 6q,#fdd 7q,#ff9c9c 9q,#ff8d8d 10q,#f88 12q,#f99 13q,#ffd5d5 14q,#d6d6ff 15q,#9595ff 16q,#8080ff 17q,#7979ff 18q,#8b8bff 20q,#a4a4ff 21q,#d6d6ff 22q,#fffdfd 23q,#fdd 24q,#ffcaca 25q,#ffc2c2 26q,#ffcbcb 28q,#ffecec 31q,#fffcfc 33q,#fdfdff 34q,#fbfbff 35q,#fafaff 37q,#fff 43q,#fff 56q,#fffbfb 63q,#fffdfd 67q,#fff 69q,#fefeff 74q,#fff 78q,#fff 95q,#fdfdff 99q,#fff 104q,#fff 122q,#fffdfd 127q,#fff 130q,#f5f5ff 135q,#f3f3ff 137q,#f5f5ff 139q,#fff 142q,#fff5f5 144q,#fee 147q,#fff0f0 149q,#fffdfd 153q,#fefeff 154q,#fafaff 156q,#f9f9ff 158q,#fbfbff 168q,#fff 171q,#fff8f8 175q,#fff7f7 177q,#fff9f9 179q,#fff 183q,#fcfcff 187q,#fff 193q,#fff 263q"></i><i style="--g:#d5d5ff 0,#d7d7ff 2q,#e2e2ff 4q,#f0f0ff 5q,#fff9f9 6q,#ffdbdb 7q,#ffb8b8 8q,#f99 9q,#ff8b8b 10q,#f88 12q,#f99 13q,#ffd5d5 14q,#d5d5ff 15q,#9494ff 16q,#7f7fff 17q,#77f 18q,#88f 20q,#a1a1ff 21q,#fff 23q,#ffdfdf 24q,#ffcbcb 25q,#ffc2c2 26q,#ffc3c3 27q,#ffcaca 28q,#fff4f4 32q,#fffbfb 33q,#fff 34q,#fbfbff 35q,#fafaff 37q,#fff 43q,#fff 55q,#fffafa 63q,#fff 70q,#fdfdff 74q,#fff 79q,#fffdfd 90q,#fff 97q,#fdfdff 101q,#fff 106q,#fff 123q,#fffcfc 128q,#fff 131q,#f1f1ff 138q,#f5f5ff 141q,#fdfdff 143q,#fffcfc 144q,#fff1f1 147q,#ffefef 149q,#fff2f2 151q,#fffefe 155q,#fff 156q,#fbfbff 158q,#f9f9ff 168q,#fafaff 170q,#fff 173q,#fff9f9 176q,#fff7f7 178q,#fff8f8 180q,#fff 185q,#fdfdff 189q,#fff 194q,#fff 263q"></i><i style="--g:#d4d4ff 0,#d6d6ff 2q,#e3e3ff 4q,#f1f1ff 5q,#fff7f7 6q,#ffd9d9 7q,#ffb5b5 8q,#f99 9q,#ff8a8a 10q,#f88 12q,#f99 13q,#ffd5d5 14q,#d4d4ff 15q,#9393ff 16q,#7e7eff 17q,#77f 18q,#88f 20q,#9f9fff 21q,#fcfcff 23q,#ffe1e1 24q,#fcc 25q,#ffc2c2 26q,#ffc2c2 27q,#ffc9c9 28q,#fff3f3 32q,#fff 34q,#fcfcff 35q,#fafaff 37q,#fff 43q,#fff 55q,#fff8f8 63q,#fff9f9 66q,#fff 70q,#fdfdff 75q,#fff 81q,#fff 86q,#fffcfc 91q,#fff 96q,#fdfdff 102q,#fff 108q,#fff 124q,#fffbfb 129q,#fffcfc 131q,#fff 133q,#f1f1ff 138q,#efefff 140q,#f5f5ff 143q,#fff 145q,#fff3f3 148q,#fff0f0 150q,#fff1f1 152q,#fff 158q,#f8f8ff 169q,#f9f9ff 171q,#fff 175q,#fffafa 177q,#fff8f8 180q,#fff 186q,#fdfdff 190q,#fff 195q,#fff 263q"></i><i style="--g:#d3d3ff 0,#d5d5ff 2q,#e3e3ff 4q,#f2f2ff 5q,#fff5f5 6q,#ffd7d7 7q,#ffb2b2 8q,#ff9797 9q,#f88 10q,#f88 12q,#f99 13q,#ffd5d5 14q,#d3d3ff 15q,#9292ff 16q,#7d7dff 17q,#77f 18q,#8686ff 20q,#9d9dff 21q,#f9f9ff 23q,#ffe3e3 24q,#fcc 25q,#ffc3c3 26q,#ffc2c2 27q,#ffd2d2 29q,#fff2f2 32q,#fff 34q,#fafaff 37q,#fff 43q,#fff 55q,#fff8f8 61q,#fff6f6 64q,#fff 71q,#fcfcff 75q,#fff 86q,#fffcfc 92q,#fff 98q,#fdfdff 104q,#fff 110q,#fff 124q,#fffafa 131q,#fffdfd 134q,#fefeff 135q,#f1f1ff 139q,#eef 141q,#f3f3ff 144q,#fff 147q,#fff6f6 149q,#fff1f1 152q,#fff 160q,#fff 162q,#f7f7ff 171q,#fafaff 174q,#fff 176q,#fff8f8 181q,#fffafa 184q,#fff 188q,#fefeff 192q,#fff 195q,#fff 263q"></i><i style="--g:#d2d2ff 0,#dadaff 3q,#e3e3ff 4q,#f3f3ff 5q,#fff4f4 6q,#ffd5d5 7q,#ffb0b0 8q,#ff9696 9q,#f88 10q,#ff8686 12q,#f99 13q,#ffd5d5 14q,#d1d1ff 15q,#9191ff 16q,#7b7bff 17q,#7575ff 18q,#8484ff 20q,#99f 21q,#f6f6ff 23q,#ffe5e5 24q,#ffcece 25q,#ffc3c3 26q,#ffc2c2 27q,#ffd1d1 29q,#fff1f1 32q,#fffefe 34q,#fafaff 37q,#fff 44q,#fefeff 52q,#fff 56q,#fff7f7 61q,#fff5f5 64q,#fff7f7 67q,#fff 71q,#fcfcff 76q,#fff 87q,#fffbfb 93q,#fffcfc 97q,#fff 99q,#fdfdff 105q,#fff 110q,#fff 125q,#fff8f8 132q,#fffafa 134q,#fff 136q,#f1f1ff 140q,#ececff 143q,#f0f0ff 145q,#fdfdff 148q,#fffdfd 149q,#fff6f6 151q,#fff3f3 153q,#fff4f4 155q,#fff 163q,#fff 165q,#f7f7ff 172q,#f9f9ff 175q,#fff 178q,#fffbfb 180q,#fff9f9 183q,#fff 189q,#fff 263q"></i><i style="--g:#d1d1ff 0,#d4d4ff 2q,#d9d9ff 3q,#e4e4ff 4q,#f4f4ff 5q,#fff2f2 6q,#ffd2d2 7q,#ffadad 8q,#ff9494 9q,#f88 10q,#ff8585 12q,#ff9797 13q,#ffd5d5 14q,#d0d0ff 15q,#9090ff 16q,#7a7aff 17q,#7474ff 18q,#8383ff 20q,#99f 21q,#f3f3ff 23q,#ffe7e7 24q,#ffcfcf 25q,#ffc4c4 26q,#ffc2c2 27q,#ffd0d0 29q,#ffefef 32q,#fffdfd 34q,#fdfdff 35q,#fbfbff 37q,#fff 45q,#fdfdff 52q,#fff 57q,#fff6f6 62q,#fff4f4 65q,#fff7f7 68q,#fff 72q,#fcfcff 77q,#fff 88q,#fffafa 94q,#fffbfb 97q,#fff 101q,#fefeff 106q,#fff 109q,#fff 126q,#fff7f7 132q,#fff6f6 134q,#fff9f9 136q,#fff 138q,#f2f2ff 141q,#ebebff 144q,#f1f1ff 147q,#fefeff 150q,#fffcfc 151q,#fff6f6 153q,#fff4f4 155q,#fff 167q,#f8f8ff 171q,#f6f6ff 174q,#f8f8ff 176q,#fff 180q,#fffbfb 182q,#fffafa 184q,#fff 191q,#fff 263q"></i><i style="--g:#d0d0ff 0,#d3d3ff 2q,#d9d9ff 3q,#e4e4ff 4q,#f5f5ff 5q,#fff0f0 6q,#ffd0d0 7q,#faa 8q,#ff9393 9q,#ff8686 10q,#ff8484 12q,#ff9797 13q,#ffd5d5 14q,#cfcfff 15q,#8f8fff 16q,#7979ff 17q,#7373ff 18q,#8181ff 20q,#9696ff 21q,#efefff 23q,#ffeaea 24q,#ffd1d1 25q,#ffc4c4 26q,#ffc2c2 27q,#ffcfcf 29q,#fee 32q,#fff6f6 33q,#fffcfc 34q,#fefeff 35q,#fcfcff 36q,#fbfbff 38q,#fefeff 44q,#fdfdff 54q,#fff 57q,#fff6f6 62q,#fff3f3 65q,#fff6f6 68q,#fff 73q,#fcfcff 78q,#fff 89q,#fffbfb 93q,#fffafa 96q,#fff 103q,#fff 122q,#fefeff 124q,#fff 127q,#fff4f4 135q,#fff6f6 137q,#fffcfc 139q,#fdfdff 140q,#f0f0ff 143q,#ebebff 146q,#f2f2ff 149q,#fff 152q,#fff9f9 154q,#fff6f6 157q,#fffbfb 165q,#fff 169q,#f9f9ff 172q,#f6f6ff 175q,#f8f8ff 178q,#fff 181q,#fffbfb 186q,#fff 192q,#fff 263q"></i><i style="--g:#cfcfff 0,#d3d3ff 2q,#d9d9ff 3q,#e5e5ff 4q,#f7f7ff 5q,#fee 6q,#ffa7a7 8q,#ff9191 9q,#ff7f7f 11q,#ff8484 12q,#ff9696 13q,#ffd5d5 14q,#ceceff 15q,#8e8eff 16q,#77f 17q,#7474ff 19q,#9494ff 21q,#bbf 22q,#ececff 23q,#ffecec 24q,#ffd3d3 25q,#ffc5c5 26q,#ffc1c1 27q,#ffcece 29q,#ffeded 32q,#fff5f5 33q,#fffbfb 34q,#fff 35q,#fcfcff 36q,#fbfbff 38q,#fefeff 45q,#fcfcff 54q,#fff 58q,#fff5f5 63q,#fff3f3 66q,#fff7f7 69q,#fff 73q,#fdfdff 79q,#fdfdff 86q,#fff 90q,#fffbfb 94q,#fffafa 97q,#fff 105q,#fff 122q,#fdfdff 125q,#fff 129q,#fff2f2 136q,#fff6f6 139q,#fffdfd 141q,#fcfcff 142q,#efefff 145q,#ebebff 147q,#f0f0ff 150q,#fff 154q,#fffafa 156q,#fff8f8 159q,#fffafa 167q,#fff 171q,#f8f8ff 174q,#f6f6ff 177q,#f9f9ff 180q,#fff 183q,#fffcfc 188q,#fff 194q,#fff 263q"></i><i style="--g:#ceceff 0,#d2d2ff 2q,#d9d9ff 3q,#e6e6ff 4q,#f8f8ff 5q,#ffecec 6q,#ffa4a4 8q,#ff9090 9q,#ff7e7e 11q,#ff8383 12q,#ff9595 13q,#ffd5d5 14q,#cdcdff 15q,#8d8dff 16q,#77f 17q,#7171ff 18q,#7e7eff 20q,#9292ff 21q,#b8b8ff 22q,#e9e9ff 23q,#fee 24q,#ffd4d4 25q,#ffc6c6 26q,#ffc1c1 27q,#fcc 29q,#fff4f4 33q,#fff 35q,#fbfbff 38q,#fdfdff 45q,#fcfcff 55q,#fff 59q,#fff6f6 63q,#fff4f4 66q,#fff6f6 69q,#fff 74q,#fcfcff 85q,#fff 91q,#fffafa 98q,#fff 106q,#fff 122q,#fdfdff 127q,#fff 130q,#fff1f1 136q,#ffefef 138q,#fff5f5 141q,#fff 143q,#f1f1ff 146q,#ececff 149q,#efefff 151q,#fff 156q,#fffafa 159q,#fff8f8 166q,#fffafa 170q,#fff 172q,#f8f8ff 176q,#f6f6ff 178q,#f8f8ff 181q,#fff 185q,#fffcfc 189q,#fff 195q,#fff 263q"></i><i style="--g:#cdcdff 0,#d2d2ff 2q,#dadaff 3q,#e6e6ff 4q,#fafaff 5q,#ffe9e9 6q,#ffa2a2 8q,#ff8e8e 9q,#ff7d7d 11q,#ff8282 12q,#ff9595 13q,#ffd4d4 14q,#ccf 15q,#8c8cff 16q,#77f 17q,#7070ff 18q,#7d7dff 20q,#9090ff 21q,#b4b4ff 22q,#e6e6ff 23q,#fff1f1 24q,#ffd6d6 25q,#ffc6c6 26q,#ffc1c1 27q,#fcc 29q,#fff3f3 33q,#fff 35q,#fbfbff 38q,#fefeff 46q,#fcfcff 55q,#fff 59q,#fff8f8 63q,#fff5f5 66q,#fff6f6 69q,#fff 75q,#fcfcff 87q,#fff 93q,#fffbfb 99q,#fff 108q,#fff 123q,#fcfcff 128q,#fff 132q,#fff0f0 137q,#ffeded 139q,#fff2f2 142q,#fff 145q,#f5f5ff 147q,#ededff 150q,#f1f1ff 153q,#fff 158q,#fffafa 162q,#fff7f7 168q,#fff9f9 171q,#fff 174q,#f9f9ff 177q,#f7f7ff 180q,#fff 187q,#fffdfd 191q,#fff 195q,#fff 263q"></i><i style="--g:#ccf 0,#d2d2ff 2q,#dadaff 3q,#e7e7ff 4q,#fbfbff 5q,#ffe7e7 6q,#ffa0a0 8q,#ff8c8c 9q,#ff7c7c 11q,#ff8181 12q,#ff9494 13q,#ffd4d4 14q,#ccf 15q,#8b8bff 16q,#77f 17q,#6f6fff 18q,#7b7bff 20q,#8e8eff 21q,#b0b0ff 22q,#e2e2ff 23q,#fff3f3 24q,#ffd7d7 25q,#ffc7c7 26q,#ffc1c1 27q,#ffc3c3 28q,#fff2f2 33q,#fffdfd 35q,#fefeff 36q,#fbfbff 39q,#fefeff 46q,#fcfcff 55q,#fff 59q,#fff8f8 64q,#fff6f6 67q,#fff 75q,#fcfcff 89q,#fff 95q,#fffcfc 101q,#fff 110q,#fff 123q,#fafaff 130q,#fefeff 133q,#fffefe 134q,#fff0f0 138q,#ffebeb 141q,#fff2f2 144q,#fffcfc 146q,#fdfdff 147q,#f4f4ff 149q,#efefff 152q,#f1f1ff 154q,#fff 161q,#fff6f6 170q,#fff8f8 173q,#fff 176q,#f9f9ff 179q,#f7f7ff 181q,#f9f9ff 184q,#fff 189q,#fffefe 193q,#fff 195q,#fff 263q"></i><i style="--g:#ccf 0,#d2d2ff 2q,#dbdbff 3q,#e9e9ff 4q,#fdfdff 5q,#ffe4e4 6q,#ff9e9e 8q,#ff8b8b 9q,#ff7b7b 11q,#ff8080 12q,#ff9393 13q,#ffd3d3 14q,#ccf 15q,#8b8bff 16q,#7575ff 17q,#6e6eff 18q,#7a7aff 20q,#8c8cff 21q,#acacff 22q,#dfdfff 23q,#fff6f6 24q,#ffd9d9 25q,#ffc8c8 26q,#ffc1c1 27q,#ffc3c3 28q,#fff0f0 33q,#fff7f7 34q,#fff 36q,#fdfdff 37q,#fcfcff 39q,#fefeff 46q,#fdfdff 55q,#fff 59q,#fff7f7 66q,#fff9f9 69q,#fff 75q,#fff 82q,#fcfcff 90q,#fff 96q,#fffdfd 102q,#fff 110q,#fff 124q,#f9f9ff 131q,#fafaff 133q,#fff 135q,#ffeded 140q,#ffeaea 142q,#ffefef 145q,#fffcfc 148q,#fdfdff 149q,#f5f5ff 151q,#f1f1ff 154q,#fff 163q,#fff 164q,#fff7f7 169q,#fff5f5 172q,#fff9f9 175q,#fff 178q,#fbfbff 180q,#f8f8ff 183q,#fff 190q,#fff 263q"></i><i style="--g:#ccf 0,#d2d2ff 2q,#dbdbff 3q,#eaeaff 4q,#fff 5q,#ffe2e2 6q,#ff9c9c 8q,#f88 9q,#ff7a7a 11q,#ff7f7f 12q,#ff9292 13q,#ffd2d2 14q,#cacaff 15q,#8a8aff 16q,#7474ff 17q,#6d6dff 18q,#77f 20q,#8a8aff 21q,#a8a8ff 22q,#dcdcff 23q,#fff8f8 24q,#ffdbdb 25q,#ffc9c9 26q,#ffc1c1 27q,#ffc2c2 28q,#ffefef 33q,#fff6f6 34q,#fff 36q,#fcfcff 39q,#fff 45q,#fefeff 53q,#fff 58q,#fffafa 63q,#fff8f8 66q,#fff 74q,#fff 86q,#fcfcff 93q,#fff 99q,#fff 125q,#f8f8ff 130q,#f6f6ff 133q,#f9f9ff 135q,#fff 137q,#fee 141q,#ffe9e9 144q,#ffefef 147q,#fffdfd 150q,#fcfcff 151q,#f5f5ff 153q,#f2f2ff 156q,#fff 166q,#fff8f8 170q,#fff5f5 173q,#fff7f7 176q,#fff 180q,#fbfbff 182q,#f9f9ff 185q,#fff 192q,#fff 263q"></i><i style="--g:#ccf 0,#d2d2ff 2q,#dcdcff 3q,#ebebff 4q,#fffdfd 5q,#ffe0e0 6q,#f99 8q,#f88 9q,#ff7979 11q,#ff7e7e 12q,#ff9292 13q,#ffd2d2 14q,#cacaff 15q,#88f 16q,#7373ff 17q,#6c6cff 18q,#77f 20q,#88f 21q,#a4a4ff 22q,#d8d8ff 23q,#fffbfb 24q,#fdd 25q,#ffcaca 26q,#ffc1c1 27q,#ffc2c2 28q,#fff4f4 34q,#fffdfd 36q,#fff 37q,#fdfdff 39q,#fff 44q,#fff 56q,#fff8f8 64q,#fff9f9 67q,#fff 72q,#fff 89q,#fcfcff 96q,#fff 103q,#fff 126q,#f4f4ff 134q,#f8f8ff 137q,#fff 139q,#ffeded 143q,#ffe8e8 146q,#fff0f0 149q,#fffefe 152q,#fcfcff 153q,#f7f7ff 155q,#f4f4ff 158q,#f9f9ff 164q,#fff 168q,#fff7f7 172q,#fff5f5 175q,#fff7f7 178q,#fff 182q,#fcfcff 184q,#fafaff 186q,#fff 194q,#fff 263q"></i><i style="--g:#cbcbff 0,#d2d2ff 2q,#dcdcff 3q,#ececff 4q,#fffbfb 5q,#fdd 6q,#ffb8b8 7q,#f99 8q,#f88 9q,#f77 11q,#ff7e7e 12q,#ff9191 13q,#ffd2d2 14q,#c8c8ff 15q,#88f 16q,#7373ff 17q,#6b6bff 18q,#77f 20q,#a1a1ff 22q,#d4d4ff 23q,#fff 24q,#ffdede 25q,#ffcbcb 26q,#ffc2c2 27q,#ffc1c1 28q,#ffcfcf 30q,#ffecec 33q,#fff3f3 34q,#fffcfc 36q,#fff 37q,#fdfdff 40q,#fff 43q,#fff 54q,#fff6f6 63q,#fff8f8 66q,#fff 71q,#fdfdff 76q,#fff 80q,#fffefe 87q,#fff 92q,#fbfbff 99q,#fff 108q,#fff 127q,#f4f4ff 133q,#f1f1ff 136q,#f4f4ff 138q,#fffefe 141q,#ffefef 144q,#ffe8e8 147q,#fee 150q,#fffefe 154q,#fdfdff 155q,#f7f7ff 158q,#f6f6ff 162q,#f9f9ff 167q,#fff 170q,#fff7f7 174q,#fff5f5 177q,#fff 184q,#fbfbff 188q,#fff 195q,#fff 263q"></i><i style="--g:#cacaff 0,#d2d2ff 2q,#ddf 3q,#ededff 4q,#fffafa 5q,#ffdbdb 6q,#ffb5b5 7q,#ff9797 8q,#ff8686 9q,#f77 11q,#ff7d7d 12q,#ff9191 13q,#ffd2d2 14q,#c7c7ff 15q,#88f 16q,#7272ff 17q,#6a6aff 18q,#7474ff 20q,#9e9eff 22q,#fdfdff 24q,#ffe1e1 25q,#fcc 26q,#ffc2c2 27q,#ffc1c1 28q,#ffcece 30q,#fff2f2 34q,#fff8f8 35q,#fff 37q,#fefeff 40q,#fff 42q,#fff 52q,#fff3f3 63q,#fff6f6 66q,#fff 71q,#fcfcff 75q,#fff 81q,#fffcfc 89q,#fff 95q,#fcfcff 97q,#fbfbff 101q,#fff 113q,#fffefe 125q,#fff 128q,#eef 137q,#f3f3ff 140q,#fbfbff 142q,#fffdfd 143q,#ffefef 146q,#ffe9e9 149q,#ffefef 152q,#fffefe 156q,#fdfdff 157q,#f8f8ff 160q,#f6f6ff 165q,#f9f9ff 169q,#fff 172q,#fff8f8 175q,#fff5f5 178q,#fff7f7 181q,#fff 186q,#fcfcff 190q,#fff 196q,#fff 263q"></i><i style="--g:#cacaff 0,#d2d2ff 2q,#ddf 3q,#eef 4q,#fff8f8 5q,#ffd9d9 6q,#ffb2b2 7q,#ff9595 8q,#ff8484 9q,#f77 11q,#ff7d7d 12q,#ff9090 13q,#ffd3d3 14q,#c5c5ff 15q,#8686ff 16q,#7070ff 17q,#6969ff 18q,#7373ff 20q,#9c9cff 22q,#f9f9ff 24q,#ffe3e3 25q,#ffcece 26q,#ffc3c3 27q,#ffc1c1 28q,#ffcdcd 30q,#ffe9e9 33q,#fff7f7 35q,#fffefe 37q,#fff 38q,#fefeff 40q,#fff 42q,#fff 52q,#fff0f0 63q,#fff3f3 66q,#fff 71q,#fbfbff 74q,#fbfbff 76q,#fff 82q,#fff 84q,#fffafa 90q,#fffbfb 93q,#fff 96q,#fbfbff 102q,#fff 117q,#fff 123q,#fffdfd 127q,#fff 130q,#efefff 136q,#ebebff 139q,#f2f2ff 142q,#fcfcff 144q,#fffdfd 145q,#fff3f3 147q,#ffebeb 150q,#fee 153q,#fffdfd 158q,#fff 159q,#f9f9ff 162q,#f5f5ff 167q,#f7f7ff 170q,#fff 174q,#fff8f8 177q,#fff6f6 180q,#fff 188q,#fdfdff 192q,#fff 196q,#fff 263q"></i><i style="--g:#cacaff 0,#d2d2ff 2q,#ddf 3q,#efefff 4q,#fff6f6 5q,#ffd6d6 6q,#ffb0b0 7q,#ff9494 8q,#ff8383 9q,#f77 11q,#ff7c7c 12q,#ff9090 13q,#ffd4d4 14q,#c3c3ff 15q,#8585ff 16q,#6f6fff 17q,#66f 18q,#7171ff 20q,#99f 22q,#f5f5ff 24q,#ffe6e6 25q,#ffd0d0 26q,#ffc4c4 27q,#ffc1c1 28q,#fcc 30q,#ffe8e8 33q,#fff6f6 35q,#fffafa 36q,#fff 38q,#fefeff 41q,#fff 53q,#ffecec 63q,#ffefef 66q,#fff 72q,#fbfbff 74q,#fafaff 76q,#fff 84q,#fff9f9 89q,#fff8f8 92q,#fffafa 95q,#fff 98q,#fbfbff 104q,#fff 119q,#fff 123q,#fffcfc 128q,#fff 132q,#ececff 138q,#e9e9ff 140q,#ededff 143q,#fcfcff 146q,#fffcfc 147q,#fff3f3 149q,#ffecec 152q,#fff0f0 155q,#fff 161q,#f8f8ff 165q,#f4f4ff 169q,#f6f6ff 172q,#fff 176q,#fff8f8 179q,#fff6f6 182q,#fff 190q,#fff 263q"></i><i style="--g:#c9c9ff 0,#d2d2ff 2q,#dedeff 3q,#f0f0ff 4q,#fff5f5 5q,#ffd4d4 6q,#ffadad 7q,#ff9292 8q,#ff8282 9q,#f77 11q,#ff7c7c 12q,#ff9090 13q,#ffd5d5 14q,#c0c0ff 15q,#8383ff 16q,#6e6eff 17q,#66f 18q,#7070ff 20q,#9696ff 22q,#f1f1ff 24q,#ffeaea 25q,#ffd2d2 26q,#ffc6c6 27q,#ffc2c2 28q,#fcc 30q,#ffe7e7 33q,#fff5f5 35q,#fffafa 36q,#fff 38q,#fefeff 41q,#fff 44q,#fff 53q,#fffafa 56q,#ffeded 61q,#ffe9e9 64q,#fee 67q,#fff 72q,#fbfbff 75q,#fafaff 77q,#fff 85q,#fff8f8 90q,#fff6f6 93q,#fff8f8 96q,#fff 100q,#fcfcff 106q,#fff 123q,#fffafa 130q,#fffbfb 132q,#fff 134q,#ececff 139q,#e7e7ff 142q,#ededff 145q,#fcfcff 148q,#fffcfc 149q,#fff4f4 151q,#fee 154q,#fff2f2 157q,#fff 163q,#f6f6ff 168q,#f4f4ff 171q,#f6f6ff 174q,#fff 178q,#fffafa 180q,#fff8f8 183q,#fff9f9 186q,#fff 191q,#fff 263q"></i><i style="--g:#c9c9ff 0,#d2d2ff 2q,#dfdfff 3q,#f1f1ff 4q,#fff3f3 5q,#ffd1d1 6q,#faa 7q,#ff9191 8q,#f77 10q,#ff7b7b 12q,#ff9090 13q,#ffd6d6 14q,#bebeff 15q,#8282ff 16q,#6d6dff 17q,#66f 18q,#6e6eff 20q,#9393ff 22q,#ececff 24q,#ffeded 25q,#ffd5d5 26q,#ffc7c7 27q,#ffc3c3 28q,#ffc5c5 29q,#fee 34q,#fff5f5 35q,#fff9f9 36q,#fff 38q,#fdfdff 41q,#fdfdff 50q,#fff 54q,#fffcfc 56q,#ffecec 61q,#ffe7e7 64q,#ffeaea 67q,#fff 73q,#fcfcff 75q,#fafaff 78q,#fff 86q,#fff7f7 91q,#fff5f5 94q,#fff7f7 97q,#fff 102q,#fdfdff 107q,#fff 123q,#fff7f7 132q,#fff9f9 134q,#fff 136q,#eaeaff 141q,#e5e5ff 144q,#ededff 147q,#fdfdff 150q,#fffdfd 151q,#fff5f5 153q,#fff0f0 156q,#fff4f4 160q,#fffefe 165q,#fefeff 166q,#f6f6ff 170q,#f3f3ff 173q,#f6f6ff 176q,#fff 180q,#fffbfb 182q,#fff9f9 185q,#fff 193q,#fff 263q"></i><i style="--g:#c9c9ff 0,#d3d3ff 2q,#e0e0ff 3q,#f3f3ff 4q,#fff1f1 5q,#ffcfcf 6q,#ffa7a7 7q,#ff8f8f 8q,#f77 10q,#ff7b7b 12q,#ff9090 13q,#ffd7d7 14q,#bcbcff 15q,#8181ff 16q,#6c6cff 17q,#66f 18q,#6c6cff 20q,#9090ff 22q,#b7b7ff 23q,#e8e8ff 24q,#fff1f1 25q,#ffd8d8 26q,#ffc9c9 27q,#ffc4c4 28q,#ffc5c5 29q,#fff4f4 35q,#fff9f9 36q,#fff 38q,#fdfdff 41q,#fcfcff 51q,#fdfdff 54q,#fff 55q,#fffbfb 57q,#ffeaea 62q,#ffe5e5 65q,#ffebeb 68q,#fff 74q,#fcfcff 76q,#fafaff 79q,#fbfbff 83q,#fff 87q,#fff6f6 92q,#fff3f3 95q,#fff5f5 98q,#fff 104q,#fefeff 109q,#fff 124q,#fff4f4 133q,#fff8f8 136q,#fff 138q,#ececff 142q,#e5e5ff 145q,#eaeaff 148q,#fdfdff 152q,#fffdfd 153q,#fff4f4 156q,#fff2f2 159q,#fff6f6 163q,#fff 168q,#f7f7ff 171q,#f3f3ff 175q,#f6f6ff 178q,#fff 182q,#fffcfc 184q,#fffafa 187q,#fff 195q,#fff 263q"></i><i style="--g:#cacaff 0,#d4d4ff 2q,#e1e1ff 3q,#f5f5ff 4q,#fee 5q,#ffa4a4 7q,#ff8e8e 8q,#f77 10q,#ff7a7a 12q,#ff8f8f 13q,#ffd7d7 14q,#bbf 15q,#8080ff 16q,#6b6bff 17q,#6363ff 18q,#6b6bff 20q,#8e8eff 22q,#b2b2ff 23q,#e3e3ff 24q,#fff4f4 25q,#ffdada 26q,#ffcbcb 27q,#ffc5c5 28q,#ffc6c6 29q,#fff4f4 35q,#fff 38q,#fdfdff 41q,#fbfbff 52q,#fcfcff 55q,#fff 56q,#fffafa 58q,#ffe8e8 63q,#ffe5e5 65q,#ffe9e9 68q,#fffafa 73q,#fff 75q,#fcfcff 77q,#fafaff 81q,#fbfbff 85q,#fff 88q,#fff6f6 93q,#fff3f3 96q,#fff5f5 99q,#fff 107q,#fff 125q,#fff2f2 133q,#fff0f0 135q,#fff6f6 138q,#fff 140q,#ebebff 144q,#e5e5ff 147q,#ebebff 150q,#fcfcff 154q,#fffefe 155q,#fff6f6 158q,#fff3f3 162q,#fff7f7 166q,#fffefe 169q,#fefeff 170q,#f7f7ff 173q,#f3f3ff 176q,#f5f5ff 179q,#fff 184q,#fffbfb 189q,#fff 196q,#fff 263q"></i><i style="--g:#cacaff 0,#d5d5ff 2q,#e2e2ff 3q,#f7f7ff 4q,#ffecec 5q,#ffa1a1 7q,#ff7d7d 9q,#ff7373 11q,#ff7979 12q,#ff8f8f 13q,#ffd7d7 14q,#b9b9ff 15q,#7f7fff 16q,#6a6aff 17q,#6363ff 19q,#77f 21q,#8b8bff 22q,#adadff 23q,#dfdfff 24q,#fff8f8 25q,#fdd 26q,#fcc 27q,#ffc6c6 28q,#ffc6c6 29q,#fff3f3 35q,#fff 38q,#fcfcff 41q,#fafaff 52q,#fbfbff 55q,#fff 57q,#fffdfd 58q,#ffebeb 63q,#ffe6e6 66q,#ffebeb 69q,#fffbfb 74q,#fff 76q,#fbfbff 79q,#fafaff 83q,#fbfbff 86q,#fff 89q,#fff 90q,#fff7f7 94q,#fff4f4 98q,#fffcfc 106q,#fff 112q,#fff 126q,#fffbfb 129q,#ffeded 136q,#fff1f1 139q,#fffefe 142q,#ebebff 146q,#e6e6ff 149q,#ededff 152q,#fff 157q,#fff7f7 160q,#fff4f4 164q,#fff7f7 168q,#fffdfd 171q,#fefeff 172q,#f7f7ff 175q,#f3f3ff 178q,#f6f6ff 181q,#fff 186q,#fffdfd 191q,#fff 197q,#fff 263q"></i><i style="--g:#ccf 0,#ceceff 1q,#d6d6ff 2q,#e4e4ff 3q,#f9f9ff 4q,#ffe9e9 5q,#ff9f9f 7q,#ff7c7c 9q,#ff7272 11q,#f77 12q,#ff8e8e 13q,#ffd6d6 14q,#b9b9ff 15q,#7f7fff 16q,#6a6aff 17q,#6161ff 18q,#6868ff 20q,#88f 22q,#a8a8ff 23q,#dbdbff 24q,#fffbfb 25q,#ffdfdf 26q,#ffcece 27q,#ffc7c7 28q,#ffc6c6 29q,#ffd2d2 31q,#ffebeb 34q,#fff7f7 36q,#fffefe 38q,#fff 39q,#fcfcff 41q,#f9f9ff 53q,#fbfbff 56q,#fff 58q,#fee 63q,#ffe8e8 66q,#ffebeb 69q,#fff 76q,#fcfcff 80q,#fafaff 85q,#fbfbff 88q,#fff 91q,#fff7f7 96q,#fff5f5 99q,#fffdfd 110q,#fff 118q,#fff 128q,#fff9f9 131q,#ffecec 136q,#ffe9e9 138q,#ffeeee 141q,#fffefe 144q,#fbfbff 145q,#ececff 148q,#e8e8ff 151q,#eef 154q,#fff 159q,#fff6f6 163q,#fff3f3 167q,#fff6f6 170q,#fffdfd 173q,#fefeff 174q,#f7f7ff 177q,#f4f4ff 180q,#f7f7ff 183q,#fff 188q,#fffefe 193q,#fff 196q,#fff 263q"></i><i style="--g:#ccf 0,#cfcfff 1q,#d7d7ff 2q,#e6e6ff 3q,#fcfcff 4q,#ffe5e5 5q,#ff9d9d 7q,#ff7a7a 9q,#ff7171 11q,#f77 12q,#ff8d8d 13q,#ffd5d5 14q,#b9b9ff 15q,#7e7eff 16q,#6969ff 17q,#6161ff 19q,#7474ff 21q,#a4a4ff 23q,#d7d7ff 24q,#fff 25q,#ffe1e1 26q,#ffd0d0 27q,#ffc7c7 28q,#ffc6c6 29q,#ffd1d1 31q,#ffeaea 34q,#fff6f6 36q,#fffdfd 38q,#fff 39q,#fdfdff 41q,#f9f9ff 53q,#fbfbff 56q,#fff 58q,#fffdfd 59q,#fee 64q,#ffebeb 67q,#ffefef 70q,#fff 77q,#f9f9ff 87q,#fbfbff 90q,#fff 93q,#fff9f9 97q,#fff7f7 100q,#fff 119q,#fff 123q,#fdfdff 127q,#fff 130q,#fffbfb 132q,#ffebeb 137q,#ffe6e6 140q,#ffeded 143q,#fffdfd 146q,#fbfbff 147q,#f1f1ff 149q,#eaeaff 152q,#ededff 155q,#fff 161q,#fff6f6 165q,#fff3f3 169q,#fff6f6 172q,#fff 176q,#f7f7ff 179q,#f5f5ff 182q,#fff 191q,#fff 263q"></i><i style="--g:#ceceff 0,#d0d0ff 1q,#d9d9ff 2q,#e8e8ff 3q,#fff 4q,#ffe2e2 5q,#f99 7q,#f88 8q,#ff7979 9q,#ff7070 11q,#f77 12q,#ff8c8c 13q,#ffd3d3 14q,#b9b9ff 15q,#7e7eff 16q,#6868ff 17q,#6060ff 19q,#7373ff 21q,#a1a1ff 23q,#d3d3ff 24q,#fdfdff 25q,#ffe4e4 26q,#ffd1d1 27q,#ffc8c8 28q,#ffc6c6 29q,#ffd0d0 31q,#ffe8e8 34q,#fff5f5 36q,#fff 39q,#fafaff 53q,#fcfcff 56q,#fff 58q,#fff1f1 64q,#fee 67q,#fff1f1 70q,#fff 77q,#f9f9ff 89q,#fafaff 92q,#fff 96q,#fffbfb 99q,#fffafa 102q,#fff 119q,#fff 123q,#fbfbff 128q,#fbfbff 130q,#fefeff 132q,#fffefe 133q,#ffe8e8 139q,#ffe4e4 142q,#ffecec 145q,#fffcfc 148q,#fcfcff 149q,#f3f3ff 151q,#ececff 154q,#f1f1ff 158q,#fff 163q,#fff6f6 167q,#fff2f2 171q,#fff6f6 174q,#fff 178q,#fafaff 180q,#f7f7ff 183q,#f8f8ff 186q,#fff 193q,#fff 263q"></i><i style="--g:#cfcfff 0,#d2d2ff 1q,#dbdbff 2q,#eaeaff 3q,#fffdfd 4q,#ffdfdf 5q,#f99 7q,#ff8585 8q,#f77 9q,#ff6f6f 11q,#f77 12q,#ff8b8b 13q,#ffd2d2 14q,#b8b8ff 15q,#7d7dff 16q,#66f 17q,#5f5fff 19q,#7171ff 21q,#9e9eff 23q,#cfcfff 24q,#fafaff 25q,#ffe6e6 26q,#ffd2d2 27q,#ffc8c8 28q,#ffc5c5 29q,#ffcfcf 31q,#fee 35q,#fff7f7 37q,#fff 40q,#fcfcff 52q,#fff 57q,#fff3f3 63q,#fff1f1 66q,#fff3f3 69q,#fff 77q,#fff 80q,#f9f9ff 92q,#fff 99q,#fffcfc 105q,#fff 122q,#f8f8ff 130q,#fafaff 133q,#fff 135q,#ffe9e9 140q,#ffe2e2 143q,#ffe7e7 146q,#fffcfc 150q,#fdfdff 151q,#f1f1ff 154q,#efefff 157q,#f5f5ff 161q,#fff 165q,#fff6f6 169q,#fff2f2 173q,#fff5f5 176q,#fff 180q,#fbfbff 182q,#f8f8ff 185q,#fff 195q,#fff 263q"></i><i style="--g:#d0d0ff 0,#d3d3ff 1q,#ddf 2q,#ececff 3q,#fffafa 4q,#ffdcdc 5q,#ff9696 7q,#f77 9q,#ff6e6e 11q,#ff7575 12q,#ff8a8a 13q,#ffd2d2 14q,#b8b8ff 15q,#7d7dff 16q,#66f 17q,#5e5eff 19q,#7070ff 21q,#9c9cff 23q,#f7f7ff 25q,#ffe8e8 26q,#ffd3d3 27q,#ffc8c8 28q,#ffc5c5 29q,#ffcdcd 31q,#ffecec 35q,#fff6f6 37q,#fffbfb 39q,#fff 42q,#fff 54q,#fff3f3 62q,#fff1f1 65q,#fff4f4 68q,#fff 75q,#fff 85q,#f9f9ff 95q,#fff 104q,#fff 122q,#f4f4ff 132q,#f8f8ff 135q,#fff 137q,#ffe7e7 142q,#ffe1e1 145q,#ffe7e7 148q,#fffbfb 152q,#fefeff 153q,#f3f3ff 156q,#f0f0ff 159q,#f5f5ff 163q,#fff 167q,#fff5f5 171q,#fff1f1 174q,#fff4f4 177q,#fff 182q,#fafaff 187q,#fff 196q,#fff 263q"></i><i style="--g:#d1d1ff 0,#d5d5ff 1q,#dedeff 2q,#eef 3q,#fff8f8 4q,#ffd9d9 5q,#ffb2b2 6q,#ff9494 7q,#f77 9q,#ff6d6d 11q,#ff7474 12q,#ff8a8a 13q,#ffd2d2 14q,#b6b6ff 15q,#7c7cff 16q,#66f 17q,#5d5dff 19q,#6f6fff 21q,#99f 23q,#f3f3ff 25q,#ffeaea 26q,#ffd5d5 27q,#ffc9c9 28q,#ffc5c5 29q,#fcc 31q,#fff0f0 36q,#fffafa 39q,#fffdfd 41q,#fff 46q,#fff 49q,#fffdfd 53q,#fff0f0 61q,#fee 64q,#fff2f2 67q,#fff 73q,#fdfdff 77q,#fff 80q,#fffefe 86q,#fff 90q,#fafaff 94q,#f8f8ff 98q,#fdfdff 108q,#fff 120q,#fcfcff 125q,#f0f0ff 134q,#f5f5ff 137q,#fdfdff 139q,#fffcfc 140q,#ffe7e7 144q,#ffe1e1 147q,#ffe8e8 150q,#fff 155q,#f5f5ff 158q,#f2f2ff 161q,#f5f5ff 165q,#fff 169q,#fff5f5 173q,#fff1f1 176q,#fff6f6 180q,#fff 184q,#fbfbff 189q,#fff 197q,#fff 263q"></i><i style="--g:#d2d2ff 0,#d6d6ff 1q,#dfdfff 2q,#f0f0ff 3q,#fff6f6 4q,#ffd6d6 5q,#ffafaf 6q,#ff9393 7q,#ff7575 9q,#ff6d6d 11q,#ff7474 12q,#ff8a8a 13q,#ffd3d3 14q,#b4b4ff 15q,#7b7bff 16q,#66f 17q,#5c5cff 19q,#6d6dff 21q,#9696ff 23q,#efefff 25q,#ffeded 26q,#ffd7d7 27q,#ffcaca 28q,#ffc6c6 30q,#fee 36q,#fff6f6 38q,#fffcfc 41q,#fffdfd 44q,#fffbfb 52q,#fff7f7 55q,#ffecec 60q,#ffe9e9 63q,#ffeded 66q,#fff 72q,#fbfbff 76q,#fff 82q,#fffbfb 88q,#fff 93q,#f8f8ff 97q,#f6f6ff 100q,#fcfcff 112q,#fdfdff 123q,#fafaff 127q,#eef 133q,#ececff 136q,#f2f2ff 139q,#fbfbff 141q,#fffdfd 142q,#ffe8e8 146q,#ffe3e3 149q,#ffeaea 152q,#fff 157q,#f6f6ff 160q,#f2f2ff 164q,#f7f7ff 168q,#fff 171q,#fff5f5 175q,#fff2f2 178q,#fff4f4 181q,#fff 187q,#fdfdff 192q,#fff 198q,#fff 263q"></i><i style="--g:#d3d3ff 0,#d7d7ff 1q,#e1e1ff 2q,#f2f2ff 3q,#fff4f4 4q,#ffd4d4 5q,#ffacac 6q,#ff9191 7q,#ff7474 9q,#ff6c6c 11q,#ff7474 12q,#ff8a8a 13q,#ffd5d5 14q,#b0b0ff 15q,#7979ff 16q,#66f 17q,#5b5bff 19q,#6b6bff 21q,#9393ff 23q,#eaeaff 25q,#fff1f1 26q,#ffdada 27q,#fcc 28q,#ffc7c7 30q,#ffeded 36q,#fff5f5 38q,#fffbfb 41q,#fffcfc 44q,#fffcfc 49q,#fffafa 52q,#fff5f5 55q,#ffe6e6 60q,#ffe2e2 63q,#ffebeb 67q,#fff 72q,#fafaff 76q,#fbfbff 79q,#fff 82q,#fff7f7 89q,#fff9f9 92q,#fff 95q,#f8f8ff 99q,#f6f6ff 102q,#fbfbff 114q,#fdfdff 125q,#f9f9ff 129q,#eaeaff 135q,#e7e7ff 137q,#e9e9ff 139q,#efefff 141q,#fff 144q,#ffeded 147q,#ffe7e7 149q,#ffe5e5 151q,#ffecec 154q,#fff 159q,#f7f7ff 162q,#f2f2ff 166q,#f6f6ff 170q,#fff 173q,#fff5f5 177q,#fff3f3 180q,#fff5f5 183q,#fff 189q,#fefeff 194q,#fff 196q,#fff 263q"></i><i style="--g:#d4d4ff 0,#d8d8ff 1q,#e2e2ff 2q,#f3f3ff 3q,#fff2f2 4q,#ffd1d1 5q,#faa 6q,#ff9090 7q,#ff7373 9q,#ff6c6c 11q,#ff7474 12q,#ff8b8b 13q,#ffd8d8 14q,#acacff 15q,#77f 16q,#6363ff 17q,#5959ff 19q,#6969ff 21q,#9090ff 23q,#b6b6ff 24q,#e5e5ff 25q,#fff5f5 26q,#fdd 27q,#ffcece 28q,#ffc8c8 29q,#ffc7c7 30q,#ffecec 36q,#fff8f8 39q,#fffcfc 42q,#fffdfd 45q,#fffcfc 49q,#fffafa 52q,#fff6f6 54q,#ffe1e1 60q,#ffdbdb 63q,#ffe0e0 66q,#fffcfc 72q,#fff 73q,#fafaff 75q,#f9f9ff 77q,#fff 83q,#fff7f7 87q,#fff3f3 91q,#fff6f6 94q,#fff 98q,#f9f9ff 101q,#f6f6ff 104q,#fff 123q,#fff 127q,#fbfbff 130q,#e8e8ff 136q,#e3e3ff 139q,#e5e5ff 141q,#ececff 143q,#fefeff 146q,#ffefef 149q,#ffe9e9 151q,#ffe8e8 153q,#fee 156q,#fff 161q,#f7f7ff 164q,#f2f2ff 168q,#f4f4ff 171q,#fefeff 175q,#fffdfd 176q,#fff6f6 179q,#fff4f4 182q,#fff 192q,#fff 263q"></i><i style="--g:#d5d5ff 0,#d9d9ff 1q,#e3e3ff 2q,#f5f5ff 3q,#fff0f0 4q,#ffcfcf 5q,#ffa7a7 6q,#ff8f8f 7q,#ff7373 9q,#ff6c6c 11q,#ff7474 12q,#ff8b8b 13q,#ffdbdb 14q,#a8a8ff 15q,#77f 16q,#6161ff 17q,#5858ff 19q,#66f 21q,#8d8dff 23q,#afafff 24q,#dfdfff 25q,#fffbfb 26q,#ffe1e1 27q,#ffd1d1 28q,#ffcaca 29q,#ffc9c9 30q,#ffd2d2 32q,#ffe7e7 35q,#fff1f1 37q,#fff8f8 39q,#fffcfc 42q,#fffefe 46q,#fffdfd 49q,#fffbfb 52q,#fff4f4 55q,#ffd9d9 61q,#ffd4d4 64q,#fdd 67q,#fffdfd 73q,#fefeff 74q,#f9f9ff 76q,#f8f8ff 78q,#fbfbff 81q,#fff 83q,#fff2f2 89q,#ffefef 92q,#fff2f2 95q,#fff 100q,#fafaff 103q,#f8f8ff 106q,#fff 122q,#fffdfd 127q,#fff 130q,#fbfbff 132q,#e5e5ff 138q,#e0e0ff 141q,#e6e6ff 144q,#fcfcff 148q,#fffcfc 149q,#fee 152q,#ffebeb 155q,#fff0f0 158q,#fff 163q,#f4f4ff 167q,#f1f1ff 170q,#f3f3ff 173q,#fdfdff 177q,#fffefe 178q,#fff8f8 181q,#fff6f6 184q,#fff 195q,#fff 263q"></i><i style="--g:#d6d6ff 0,#dadaff 1q,#e4e4ff 2q,#f6f6ff 3q,#fee 4q,#fcc 5q,#ffa5a5 6q,#ff7d7d 8q,#ff6c6c 11q,#ff7474 12q,#ff8c8c 13q,#ffdede 14q,#a4a4ff 15q,#7474ff 16q,#6060ff 17q,#55f 19q,#7575ff 22q,#a8a8ff 24q,#d8d8ff 25q,#fefeff 26q,#ffe6e6 27q,#ffd5d5 28q,#fcc 29q,#ffcbcb 30q,#ffd3d3 32q,#fff2f2 37q,#fff8f8 39q,#fff 44q,#fff 51q,#fff9f9 54q,#fff2f2 56q,#ffd7d7 61q,#ffcfcf 64q,#ffd2d2 66q,#ffdbdb 68q,#fff4f4 72q,#fffdfd 74q,#fdfdff 75q,#f9f9ff 77q,#f8f8ff 79q,#fbfbff 82q,#fff 84q,#fff0f0 90q,#ffebeb 93q,#fee 96q,#fffefe 102q,#fff 103q,#fbfbff 105q,#fafaff 108q,#fff 122q,#fffafa 129q,#fffbfb 131q,#fff 133q,#f9f9ff 135q,#e3e3ff 140q,#dedeff 143q,#e5e5ff 146q,#fbfbff 150q,#fffdfd 151q,#fff1f1 154q,#ffeded 157q,#fff1f1 160q,#fff 165q,#f6f6ff 168q,#f0f0ff 172q,#f3f3ff 175q,#fff 180q,#fff9f9 183q,#fff7f7 186q,#fff 197q,#fff 263q"></i><i style="--g:#d8d8ff 0,#dcdcff 1q,#e6e6ff 2q,#f9f9ff 3q,#ffebeb 4q,#ffa2a2 6q,#ff7c7c 8q,#ff6b6b 10q,#ff7474 12q,#ff8c8c 13q,#ffe1e1 14q,#a2a2ff 15q,#7373ff 16q,#55f 18q,#6464ff 21q,#8686ff 23q,#a2a2ff 24q,#d2d2ff 25q,#f8f8ff 26q,#ffeaea 27q,#ffd9d9 28q,#ffd0d0 29q,#ffcdcd 30q,#ffd4d4 32q,#ffeded 36q,#fff6f6 38q,#fff 42q,#fcfcff 49q,#fff 53q,#fff5f5 56q,#ffd3d3 62q,#fcc 65q,#ffd5d5 68q,#fff4f4 73q,#fffefe 75q,#f9f9ff 78q,#f8f8ff 80q,#fbfbff 83q,#fff 85q,#ffecec 92q,#ffe9e9 95q,#ffeded 98q,#fff 105q,#fdfdff 110q,#fff 121q,#fff5f5 131q,#fff9f9 134q,#fff 136q,#e6e6ff 141q,#dfdfff 143q,#ddf 145q,#e4e4ff 148q,#fff 153q,#fff3f3 156q,#fff0f0 159q,#fff3f3 162q,#fff 167q,#f5f5ff 170q,#f0f0ff 174q,#f4f4ff 178q,#fff 182q,#fffbfb 185q,#fff9f9 188q,#fff 198q,#fff 263q"></i><i style="--g:#dadaff 0,#dedeff 1q,#e9e9ff 2q,#fcfcff 3q,#ffe8e8 4q,#ffa0a0 6q,#ff8a8a 7q,#ff7070 9q,#ff6b6b 11q,#ff7474 12q,#ff8c8c 13q,#ffe2e2 14q,#a0a0ff 15q,#7272ff 16q,#5e5eff 17q,#55f 19q,#7070ff 22q,#9e9eff 24q,#cbcbff 25q,#f3f3ff 26q,#ffefef 27q,#fdd 28q,#ffd3d3 29q,#ffcfcf 30q,#ffd5d5 32q,#fee 36q,#fff7f7 38q,#fff 41q,#fafaff 50q,#fafaff 52q,#fefeff 54q,#fffdfd 55q,#fff4f4 57q,#ffd5d5 62q,#fcc 65q,#ffcece 67q,#ffd7d7 69q,#fff5f5 74q,#fff 76q,#f9f9ff 79q,#f8f8ff 81q,#fafaff 84q,#fefeff 86q,#fffefe 87q,#ffebeb 93q,#ffe7e7 96q,#ffebeb 99q,#fffbfb 106q,#fff 111q,#fff 117q,#fffdfd 122q,#fff0f0 133q,#fff5f5 136q,#fffcfc 138q,#fcfcff 139q,#e7e7ff 143q,#dfdfff 145q,#ddf 147q,#e2e2ff 149q,#eaeaff 151q,#fff 155q,#fff5f5 158q,#fff1f1 161q,#fff5f5 165q,#fffdfd 168q,#fefeff 169q,#f3f3ff 173q,#f0f0ff 176q,#f2f2ff 179q,#fff 185q,#fffbfb 190q,#fff 199q,#fff 263q"></i><i style="--g:#ddf 0,#e1e1ff 1q,#ececff 2q,#fff 3q,#ffe4e4 4q,#ff9d9d 6q,#f88 7q,#ff6f6f 9q,#ff6a6a 11q,#ff7373 12q,#ff8c8c 13q,#ffe2e2 14q,#9f9fff 15q,#7171ff 16q,#5d5dff 17q,#55f 19q,#6e6eff 22q,#99f 24q,#ededff 26q,#fff3f3 27q,#ffe0e0 28q,#ffd5d5 29q,#ffd2d2 31q,#fff8f8 38q,#fff 41q,#fbfbff 44q,#f7f7ff 51q,#fafaff 54q,#fffefe 56q,#fff4f4 58q,#ffd5d5 63q,#ffcdcd 66q,#ffd5d5 69q,#fff7f7 75q,#fff 77q,#f9f9ff 80q,#f8f8ff 83q,#fbfbff 86q,#fff 88q,#ffecec 94q,#ffe8e8 97q,#ffeaea 100q,#fff8f8 107q,#fffbfb 111q,#fffbfb 123q,#fff9f9 126q,#ffeded 132q,#ffebeb 135q,#fff0f0 138q,#fff 141q,#e8e8ff 145q,#e1e1ff 147q,#dfdfff 149q,#e7e7ff 152q,#fefeff 157q,#fff6f6 160q,#fff2f2 163q,#fff5f5 167q,#fffdfd 170q,#fefeff 171q,#f3f3ff 175q,#f0f0ff 178q,#f3f3ff 181q,#fff 188q,#fffdfd 192q,#fff 198q,#fff 263q"></i><i style="--g:#e1e1ff 0,#e4e4ff 1q,#f0f0ff 2q,#fffbfb 3q,#ffe0e0 4q,#ff9b9b 6q,#ff6d6d 9q,#ff6969 11q,#ff7272 12q,#ff8b8b 13q,#ffe0e0 14q,#9f9fff 15q,#7171ff 16q,#5d5dff 17q,#5252ff 19q,#6d6dff 22q,#9797ff 24q,#e9e9ff 26q,#fff7f7 27q,#ffe3e3 28q,#ffd8d8 29q,#ffd3d3 31q,#fff8f8 38q,#fffefe 40q,#fff 41q,#fbfbff 44q,#f6f6ff 51q,#f7f7ff 54q,#fffefe 57q,#ffdada 63q,#ffd1d1 66q,#ffd6d6 69q,#fff9f9 76q,#fff 78q,#f9f9ff 81q,#f7f7ff 84q,#f9f9ff 87q,#fff 90q,#ffefef 95q,#ffeaea 99q,#fff9f9 111q,#fffbfb 123q,#fff8f8 127q,#ffe8e8 134q,#ffe5e5 137q,#ffecec 140q,#fffcfc 143q,#fcfcff 144q,#ebebff 147q,#e4e4ff 149q,#e2e2ff 151q,#e9e9ff 154q,#fefeff 159q,#fff4f4 163q,#fff2f2 166q,#fff5f5 169q,#fff 173q,#f6f6ff 176q,#f1f1ff 180q,#fff 191q,#fff 263q"></i><i style="--g:#e4e4ff 0,#e8e8ff 1q,#f4f4ff 2q,#fff6f6 3q,#ffdbdb 4q,#ff9898 6q,#f77 8q,#f66 10q,#ff7171 12q,#f88 13q,#ffdede 14q,#a0a0ff 15q,#7171ff 16q,#5c5cff 17q,#5252ff 19q,#6b6bff 22q,#9494ff 24q,#e5e5ff 26q,#fffafa 27q,#ffe5e5 28q,#ffd9d9 29q,#ffd4d4 30q,#ffd3d3 31q,#fff7f7 38q,#fff 41q,#fafaff 45q,#f5f5ff 52q,#f8f8ff 55q,#fefeff 57q,#fffcfc 58q,#ffe1e1 63q,#ffd9d9 65q,#ffd6d6 67q,#fdd 70q,#fffbfb 77q,#fffefe 78q,#fefeff 79q,#f9f9ff 82q,#f6f6ff 86q,#f8f8ff 89q,#fff 92q,#fff3f3 96q,#fee 100q,#fff9f9 112q,#fffcfc 125q,#fff8f8 129q,#ffe3e3 136q,#ffe0e0 139q,#ffe4e4 141q,#ffeded 143q,#fff 146q,#eef 149q,#e7e7ff 151q,#e6e6ff 153q,#efefff 157q,#fff 161q,#fff4f4 165q,#fff1f1 168q,#fff4f4 171q,#fff 175q,#f5f5ff 179q,#f2f2ff 182q,#fff 194q,#fff 263q"></i><i style="--g:#e9e9ff 0,#ececff 1q,#f8f8ff 2q,#fff2f2 3q,#ffd5d5 4q,#ff9595 6q,#ff7474 8q,#f66 10q,#ff6f6f 12q,#f88 13q,#ffdbdb 14q,#a1a1ff 15q,#7171ff 16q,#5c5cff 17q,#5151ff 19q,#6a6aff 22q,#9292ff 24q,#e2e2ff 26q,#fffdfd 27q,#ffe7e7 28q,#ffdada 29q,#ffd4d4 30q,#ffd3d3 31q,#ffdada 33q,#fff1f1 37q,#fff9f9 39q,#fff 42q,#fbfbff 45q,#f7f7ff 52q,#f9f9ff 55q,#fefeff 57q,#fffdfd 58q,#ffe2e2 64q,#fdd 67q,#ffe2e2 70q,#fff8f8 76q,#fff 79q,#f9f9ff 83q,#f5f5ff 88q,#f7f7ff 91q,#fff 95q,#fff7f7 98q,#fff3f3 102q,#fff 124q,#fff 127q,#fff8f8 131q,#ffe3e3 137q,#ffdcdc 140q,#ffdede 142q,#ffe5e5 144q,#fffcfc 148q,#fbfbff 149q,#ededff 152q,#e9e9ff 155q,#eef 158q,#fff 163q,#fff5f5 166q,#fff0f0 170q,#fff3f3 173q,#fffefe 177q,#fdfdff 178q,#f7f7ff 181q,#f4f4ff 184q,#fff 197q,#fff 263q"></i><i style="--g:#ededff 0,#f1f1ff 1q,#fdfdff 2q,#ffeded 3q,#ffd0d0 4q,#ffacac 5q,#ff9292 6q,#ff7272 8q,#f66 10q,#ff6e6e 12q,#ff8686 13q,#ffd8d8 14q,#a2a2ff 15q,#7171ff 16q,#5c5cff 17q,#5151ff 19q,#6969ff 22q,#9090ff 24q,#b3b3ff 25q,#dfdfff 26q,#fff 27q,#ffe8e8 28q,#ffdada 29q,#ffd4d4 30q,#ffd2d2 31q,#ffd8d8 33q,#ffeeee 37q,#fff6f6 39q,#fff 43q,#fafaff 52q,#fcfcff 55q,#fff 56q,#fffbfb 58q,#ffe8e8 63q,#ffe2e2 67q,#ffe7e7 70q,#fff9f9 76q,#fff 79q,#f4f4ff 90q,#f7f7ff 94q,#fff 98q,#fffafa 102q,#fff9f9 105q,#fff 120q,#fff 123q,#fcfcff 128q,#fff 131q,#fffafa 133q,#ffe1e1 139q,#ffdada 142q,#ffdbdb 144q,#ffe2e2 146q,#fff 151q,#f9f9ff 152q,#f1f1ff 154q,#ededff 157q,#f1f1ff 160q,#fdfdff 164q,#fffdfd 165q,#fff2f2 169q,#ffefef 172q,#fff2f2 175q,#fff 180q,#f9f9ff 183q,#f7f7ff 186q,#fff 200q,#fff 263q"></i><i style="--g:#f0f0ff 0,#f4f4ff 1q,#fffdfd 2q,#ffe9e9 3q,#fcc 4q,#ffa7a7 5q,#ff7e7e 7q,#ff6363 10q,#ff6d6d 12q,#ff8585 13q,#ffd7d7 14q,#a2a2ff 15q,#7171ff 16q,#5c5cff 17q,#5050ff 19q,#6868ff 22q,#8e8eff 24q,#b0b0ff 25q,#dcdcff 26q,#fdfdff 27q,#ffe9e9 28q,#ffdbdb 29q,#ffd3d3 30q,#ffd1d1 31q,#ffd6d6 33q,#fff0f0 38q,#fff7f7 40q,#fff 46q,#fff 53q,#fffafa 56q,#ffe9e9 62q,#ffe5e5 65q,#ffe7e7 68q,#fff7f7 74q,#fff 78q,#fff 80q,#f3f3ff 93q,#f5f5ff 97q,#fff 104q,#fffefe 109q,#fff 119q,#f7f7ff 129q,#f9f9ff 132q,#fdfdff 134q,#fffdfd 135q,#ffe0e0 141q,#ffd9d9 144q,#ffdbdb 146q,#ffe2e2 148q,#fffefe 153q,#f4f4ff 156q,#efefff 159q,#f5f5ff 163q,#fff 166q,#fff4f4 170q,#fee 174q,#fff1f1 177q,#fff 183q,#fbfbff 185q,#f9f9ff 188q,#fff 201q,#fff 263q"></i><i style="--g:#f4f4ff 0,#f8f8ff 1q,#fffafa 2q,#ffe5e5 3q,#ffc8c8 4q,#ffa4a4 5q,#ff7d7d 7q,#ff6363 10q,#ff6d6d 12q,#ff8585 13q,#ffd7d7 14q,#a1a1ff 15q,#7070ff 16q,#5252ff 18q,#5b5bff 21q,#8c8cff 24q,#acacff 25q,#d8d8ff 26q,#fbfbff 27q,#ffebeb 28q,#ffdbdb 29q,#ffd3d3 30q,#ffd0d0 31q,#ffd4d4 33q,#ffeded 38q,#fff4f4 40q,#fffafa 45q,#fffbfb 49q,#fffafa 52q,#fff5f5 55q,#ffe5e5 61q,#ffe1e1 64q,#ffe6e6 67q,#fff9f9 73q,#fff 76q,#fff 86q,#f3f3ff 94q,#f1f1ff 97q,#fbfbff 108q,#fcfcff 115q,#fafaff 122q,#f1f1ff 132q,#f5f5ff 135q,#fcfcff 137q,#fffdfd 138q,#ffe6e6 142q,#fdd 144q,#ffdada 146q,#ffdbdb 148q,#ffe2e2 150q,#fffdfd 155q,#fdfdff 156q,#f3f3ff 159q,#f2f2ff 162q,#f6f6ff 165q,#fff 168q,#fff3f3 172q,#fee 176q,#fff1f1 179q,#fff 186q,#fcfcff 188q,#fbfbff 191q,#fff 201q,#fff 263q"></i><i style="--g:#f6f6ff 0,#fbfbff 1q,#fff7f7 2q,#ffe2e2 3q,#ffa2a2 5q,#ff7c7c 7q,#ff6262 10q,#ff6d6d 12q,#ff8585 13q,#ffd9d9 14q,#9f9fff 15q,#6f6fff 16q,#5151ff 18q,#5252ff 20q,#66f 22q,#8a8aff 24q,#a6a6ff 25q,#d4d4ff 26q,#f7f7ff 27q,#ffeded 28q,#fdd 29q,#ffd3d3 30q,#ffd0d0 31q,#ffd3d3 33q,#ffebeb 38q,#fff1f1 40q,#fff7f7 44q,#fff8f8 48q,#fff6f6 51q,#fff0f0 54q,#fdd 60q,#ffd8d8 63q,#ffe1e1 67q,#fffbfb 73q,#fff 75q,#fcfcff 77q,#fff 82q,#fffbfb 86q,#fff 91q,#f3f3ff 96q,#efefff 100q,#f8f8ff 112q,#f9f9ff 120q,#f7f7ff 124q,#ececff 131q,#eaeaff 134q,#efefff 137q,#fdfdff 140q,#fffbfb 141q,#ffe4e4 145q,#ffdcdc 148q,#ffdede 150q,#ffe4e4 152q,#fffcfc 157q,#fefeff 158q,#f5f5ff 161q,#f2f2ff 164q,#f6f6ff 167q,#fff 170q,#fff3f3 174q,#fee 178q,#fff1f1 181q,#fff 189q,#fdfdff 193q,#fff 199q,#fff 263q"></i><i style="--g:#f9f9ff 0,#fdfdff 1q,#fff4f4 2q,#ffdfdf 3q,#ffa0a0 5q,#ff7b7b 7q,#ff6262 10q,#ff6d6d 12q,#ff8686 13q,#fdd 14q,#9c9cff 15q,#6e6eff 16q,#5050ff 18q,#5151ff 20q,#6464ff 22q,#88f 24q,#a2a2ff 25q,#cfcfff 26q,#f3f3ff 27q,#fff1f1 28q,#ffdfdf 29q,#ffd5d5 30q,#ffd1d1 31q,#ffd3d3 33q,#ffe9e9 38q,#fff2f2 41q,#fff5f5 44q,#fff5f5 48q,#fff0f0 52q,#ffeaea 54q,#ffd1d1 60q,#fcc 63q,#ffd4d4 66q,#fff7f7 72q,#fff 74q,#fbfbff 77q,#fcfcff 79q,#fff 81q,#fff5f5 88q,#fff7f7 91q,#fff 94q,#f3f3ff 98q,#eef 102q,#f6f6ff 114q,#f8f8ff 122q,#f4f4ff 126q,#e6e6ff 133q,#e3e3ff 136q,#e6e6ff 138q,#ededff 140q,#fff 143q,#ffe8e8 147q,#ffe0e0 150q,#ffe1e1 152q,#ffe7e7 154q,#fffdfd 159q,#fdfdff 160q,#f5f5ff 163q,#f2f2ff 166q,#f6f6ff 169q,#fff 172q,#fff4f4 176q,#ffefef 180q,#fff2f2 183q,#fff 192q,#fff 263q"></i><i style="--g:#fbfbff 0,#fff 1q,#fff2f2 2q,#fdd 3q,#ff9f9f 5q,#ff7a7a 7q,#ff6262 10q,#ff6e6e 12q,#f88 13q,#ffe4e4 14q,#99f 15q,#6b6bff 16q,#5757ff 17q,#4c4cff 19q,#55f 21q,#7171ff 23q,#9d9dff 25q,#ededff 27q,#fff6f6 28q,#ffe3e3 29q,#ffd8d8 30q,#ffd2d2 32q,#ffecec 39q,#fff3f3 42q,#fff5f5 46q,#fff4f4 49q,#ffebeb 53q,#ffc7c7 60q,#ffbfbf 63q,#ffc3c3 65q,#ffcece 67q,#fff3f3 72q,#fffdfd 74q,#fefeff 75q,#fafaff 78q,#fcfcff 80q,#fff 81q,#fff1f1 87q,#fee 90q,#fff1f1 93q,#fff 97q,#f5f5ff 100q,#efefff 104q,#f7f7ff 117q,#f8f8ff 124q,#f3f3ff 128q,#e0e0ff 135q,#ddf 138q,#e0e0ff 140q,#e7e7ff 142q,#fafaff 145q,#fffefe 146q,#ffecec 149q,#ffe6e6 151q,#ffe4e4 153q,#fee 157q,#fff 161q,#f4f4ff 165q,#f1f1ff 168q,#f5f5ff 171q,#fdfdff 174q,#fffefe 175q,#fff6f6 178q,#fff1f1 182q,#fff 196q,#fff 263q"></i><i style="--g:#fcfcff 0,#fffdfd 1q,#fff1f1 2q,#ffdbdb 3q,#ff9e9e 5q,#ff7a7a 7q,#f66 9q,#f66 11q,#ff6f6f 12q,#ff8a8a 13q,#ffebeb 14q,#9494ff 15q,#6969ff 16q,#55f 17q,#4a4aff 19q,#5f5fff 22q,#99f 25q,#e6e6ff 27q,#fffcfc 28q,#ffe8e8 29q,#ffdcdc 30q,#ffd4d4 32q,#ffd9d9 34q,#ffeded 39q,#fff4f4 42q,#fff6f6 46q,#fff5f5 49q,#fff2f2 51q,#ffebeb 53q,#ffe1e1 55q,#ffbfbf 60q,#ffb4b4 63q,#ffb6b6 65q,#ffc1c1 67q,#fff3f3 73q,#fffefe 75q,#fafaff 78q,#fbfbff 80q,#fff 82q,#ffebeb 88q,#ffe6e6 91q,#ffe7e7 93q,#ffecec 95q,#fffcfc 99q,#fefeff 100q,#f5f5ff 103q,#f2f2ff 106q,#f9f9ff 121q,#fafaff 125q,#f6f6ff 129q,#f1f1ff 131q,#dcdcff 137q,#d8d8ff 140q,#dbdbff 142q,#e3e3ff 144q,#fcfcff 148q,#fffcfc 149q,#ffeded 152q,#ffe9e9 155q,#fee 158q,#fff 163q,#f5f5ff 166q,#f0f0ff 170q,#f3f3ff 173q,#fff 177q,#fff6f6 181q,#fff3f3 184q,#fffcfc 195q,#fff 203q,#fff 263q"></i><i style="--g:#fff 0,#fffbfb 1q,#fee 2q,#ffd9d9 3q,#ff9c9c 5q,#ff7979 7q,#f66 9q,#f66 11q,#ff7070 12q,#ff8d8d 13q,#fff2f2 14q,#9090ff 15q,#66f 16q,#55f 17q,#4949ff 19q,#5d5dff 22q,#9393ff 25q,#ddf 27q,#fbfbff 28q,#ffefef 29q,#ffe2e2 30q,#ffd8d8 32q,#ffdcdc 34q,#ffefef 39q,#fff6f6 42q,#fff9f9 46q,#fff8f8 49q,#fff5f5 51q,#fee 53q,#ffe3e3 55q,#ffb4b4 61q,#faa 64q,#ffb5b5 67q,#fff3f3 74q,#fffdfd 76q,#fdfdff 77q,#fbfbff 79q,#fcfcff 81q,#fff 82q,#fff9f9 84q,#ffe6e6 89q,#ffdede 93q,#ffe4e4 96q,#fffdfd 102q,#fefeff 103q,#f8f8ff 106q,#f6f6ff 109q,#fff 127q,#f9f9ff 131q,#f3f3ff 133q,#dadaff 139q,#d5d5ff 142q,#d8d8ff 144q,#e0e0ff 146q,#fff 151q,#fff2f2 154q,#ffeded 157q,#fff4f4 161q,#fff 164q,#f3f3ff 168q,#eef 172q,#f2f2ff 175q,#fff 180q,#fff9f9 183q,#fff6f6 187q,#fffcfc 197q,#fff 207q,#fff 263q"></i><i style="--g:#fffcfc 0,#fff8f8 1q,#ffebeb 2q,#ffd6d6 3q,#ff9b9b 5q,#f77 7q,#ff6363 10q,#ff7171 12q,#ff8f8f 13q,#fff8f8 14q,#8d8dff 15q,#66f 16q,#5252ff 17q,#4747ff 19q,#5b5bff 22q,#8e8eff 25q,#acacff 26q,#d4d4ff 27q,#f3f3ff 28q,#fff6f6 29q,#ffe8e8 30q,#ffe0e0 31q,#fdd 33q,#fff7f7 41q,#fffcfc 44q,#fffdfd 47q,#fffcfc 50q,#fff7f7 52q,#ffe8e8 55q,#ffadad 62q,#ffa5a5 65q,#ffb3b3 68q,#ffe3e3 73q,#fff3f3 75q,#fffdfd 77q,#fefeff 78q,#fbfbff 80q,#fff 83q,#fff8f8 85q,#ffdede 91q,#ffd8d8 94q,#ffe0e0 98q,#fff6f6 103q,#fff 106q,#fcfcff 111q,#fff 121q,#fffafa 128q,#fffbfb 130q,#fffefe 132q,#fefeff 133q,#f6f6ff 135q,#ddf 140q,#d4d4ff 144q,#d7d7ff 146q,#dedeff 148q,#fcfcff 153q,#fffdfd 154q,#fff5f5 156q,#fff1f1 159q,#fff4f4 162q,#fff 166q,#f2f2ff 170q,#ededff 174q,#f0f0ff 177q,#fff 183q,#fffafa 186q,#fff9f9 189q,#fff 205q,#fff 263q"></i><i style="--g:#fff8f8 0,#fff4f4 1q,#ffe7e7 2q,#ffd1d1 3q,#f99 5q,#f77 7q,#ff6262 10q,#ff7171 12q,#ff8f8f 13q,#fffcfc 14q,#8b8bff 15q,#6464ff 16q,#5151ff 17q,#44f 19q,#66f 23q,#a3a3ff 26q,#ccf 27q,#ebebff 28q,#fffdfd 29q,#fee 30q,#ffe6e6 31q,#ffe1e1 33q,#fff8f8 40q,#fff 43q,#fcfcff 48q,#fdfdff 50q,#fff 51q,#fffefe 52q,#fffafa 53q,#fff0f0 55q,#ffe0e0 57q,#ffb0b0 62q,#ffa3a3 65q,#ffacac 68q,#ffeded 75q,#fff9f9 77q,#fffdfd 78q,#fefeff 79q,#fbfbff 81q,#fff 84q,#fff8f8 86q,#ffdcdc 92q,#ffd4d4 96q,#ffdbdb 99q,#ffefef 104q,#fff7f7 107q,#fffbfb 110q,#fffdfd 113q,#fffbfb 120q,#fff2f2 130q,#fff4f4 133q,#fffefe 136q,#fcfcff 137q,#e0e0ff 142q,#d8d8ff 144q,#d5d5ff 146q,#d8d8ff 148q,#dfdfff 150q,#fff 156q,#fff8f8 158q,#fff3f3 161q,#fff6f6 164q,#fffefe 167q,#fdfdff 168q,#f1f1ff 172q,#ececff 176q,#efefff 179q,#fff 186q,#fffbfb 192q,#fff 203q,#fff 263q"></i><i style="--g:#fff3f3 0,#ffefef 1q,#ffe2e2 2q,#fcc 3q,#ff9595 5q,#ff8484 6q,#f66 9q,#f66 11q,#ff7070 12q,#ff8f8f 13q,#fffcfc 14q,#8a8aff 15q,#6363ff 16q,#5050ff 17q,#44f 19q,#6464ff 23q,#9e9eff 26q,#e4e4ff 28q,#fbfbff 29q,#fff4f4 30q,#ffeaea 31q,#ffe5e5 33q,#ffeaea 35q,#fffbfb 40q,#fff 42q,#f9f9ff 45q,#f7f7ff 49q,#fafaff 52q,#fffefe 54q,#fff1f1 56q,#ffb8b8 62q,#faa 64q,#ffa5a5 66q,#faa 68q,#ffb9b9 70q,#ffe7e7 75q,#fff5f5 77q,#fff 79q,#fafaff 82q,#fbfbff 84q,#fffefe 86q,#fff6f6 88q,#fdd 93q,#ffd4d4 97q,#ffd8d8 100q,#fff2f2 108q,#fff7f7 112q,#fff6f6 121q,#ffeaea 133q,#ffefef 136q,#fffcfc 139q,#fcfcff 140q,#e4e4ff 144q,#dcdcff 146q,#d8d8ff 148q,#dbdbff 150q,#e1e1ff 152q,#fff 158q,#fff6f6 161q,#fff4f4 163q,#fff7f7 166q,#fff 169q,#f1f1ff 174q,#ececff 178q,#efefff 181q,#fff 190q,#fffefe 195q,#fff 199q,#fff 263q"></i><i style="--g:#ffeded 0,#ffe8e8 1q,#ffdbdb 2q,#ffc5c5 3q,#ffa7a7 4q,#ff8181 6q,#ff6363 9q,#ff6363 11q,#ff6f6f 12q,#ff8d8d 13q,#fffafa 14q,#8a8aff 15q,#6363ff 16q,#5050ff 17q,#44f 19q,#6262ff 23q,#99f 26q,#dedeff 28q,#f6f6ff 29q,#fff8f8 30q,#fee 31q,#ffe9e9 32q,#ffe8e8 33q,#ffecec 35q,#fffdfd 40q,#fff 41q,#f8f8ff 44q,#f3f3ff 50q,#f7f7ff 53q,#fff 55q,#fff2f2 57q,#fbb 63q,#ffacac 66q,#ffafaf 68q,#fbb 70q,#ffecec 76q,#fff8f8 78q,#fffcfc 79q,#fefeff 80q,#f9f9ff 82q,#f8f8ff 84q,#fafaff 86q,#fff 88q,#ffe1e1 94q,#ffdada 96q,#ffd7d7 99q,#fee 109q,#fff3f3 113q,#fff4f4 122q,#ffe1e1 135q,#ffe4e4 137q,#ffeaea 139q,#fffbfb 142q,#fcfcff 143q,#eaeaff 146q,#e1e1ff 148q,#ddf 150q,#dfdfff 152q,#e5e5ff 154q,#fff 160q,#fff8f8 162q,#fff4f4 165q,#fff6f6 168q,#fffdfd 171q,#fdfdff 172q,#f2f2ff 176q,#ededff 180q,#fff 194q,#fff 263q"></i><i style="--g:#ffe6e6 0,#ffe1e1 1q,#ffd4d4 2q,#ffa1a1 4q,#ff7f7f 6q,#ff6161 9q,#ff6262 11q,#ff6d6d 12q,#ff8b8b 13q,#fff4f4 14q,#8c8cff 15q,#6363ff 16q,#5050ff 17q,#44f 19q,#6161ff 23q,#9797ff 26q,#dadaff 28q,#f2f2ff 29q,#fffbfb 30q,#fff1f1 31q,#ffebeb 32q,#ffe9e9 33q,#ffecec 35q,#fffefe 40q,#fefeff 41q,#f6f6ff 45q,#f1f1ff 50q,#f2f2ff 52q,#f6f6ff 54q,#fff 56q,#fff2f2 58q,#ffc6c6 63q,#ffbaba 65q,#ffb6b6 67q,#ffbfbf 70q,#fff1f1 77q,#fff 80q,#f9f9ff 82q,#f5f5ff 85q,#f8f8ff 88q,#fff 90q,#ffe5e5 96q,#fdd 100q,#fff1f1 113q,#fff3f3 118q,#fff3f3 123q,#fee 127q,#fdd 134q,#ffd9d9 137q,#ffdcdc 139q,#ffe3e3 141q,#fffbfb 145q,#fcfcff 146q,#ebebff 149q,#e5e5ff 151q,#e3e3ff 153q,#e9e9ff 156q,#fdfdff 161q,#fffdfd 162q,#fff5f5 165q,#fff2f2 168q,#fff7f7 171q,#fff 174q,#f4f4ff 178q,#efefff 182q,#fcfcff 195q,#fff 208q,#fff 263q"></i><i style="--g:#ffdede 0,#ffd9d9 1q,#fcc 2q,#ff9d9d 4q,#ff7c7c 6q,#ff5f5f 9q,#ff6060 11q,#ff6b6b 12q,#f88 13q,#ffeded 14q,#8e8eff 15q,#66f 16q,#5151ff 17q,#44f 19q,#6060ff 23q,#9696ff 26q,#d7d7ff 28q,#f0f0ff 29q,#fffcfc 30q,#fff1f1 31q,#ffebeb 32q,#ffe9e9 34q,#fff 41q,#f8f8ff 45q,#f2f2ff 50q,#f4f4ff 53q,#fdfdff 56q,#fffcfc 57q,#ffd0d0 63q,#ffc5c5 65q,#ffc1c1 67q,#fcc 71q,#fff1f1 77q,#fff 80q,#f7f7ff 83q,#f2f2ff 87q,#f5f5ff 90q,#fff 93q,#ffecec 98q,#ffe6e6 102q,#fff3f3 115q,#fff5f5 124q,#fff1f1 128q,#ffd8d8 136q,#ffd3d3 139q,#fdd 143q,#fffcfc 148q,#fcfcff 149q,#eef 152q,#e9e9ff 155q,#eef 158q,#fcfcff 162q,#fffefe 163q,#fff5f5 166q,#fff0f0 170q,#fff4f4 173q,#fff 177q,#f7f7ff 180q,#f2f2ff 184q,#fbfbff 196q,#fdfdff 202q,#fff 216q,#fff 263q"></i><i style="--g:#ffd6d6 0,#ffd2d2 1q,#ffc4c4 2q,#f99 4q,#ff7979 6q,#ff5e5e 9q,#ff5e5e 11q,#ff6a6a 12q,#ff8585 13q,#ffe7e7 14q,#9191ff 15q,#66f 16q,#5151ff 17q,#44f 19q,#6060ff 23q,#9595ff 26q,#d6d6ff 28q,#f0f0ff 29q,#fffcfc 30q,#fff0f0 31q,#ffeaea 32q,#ffe7e7 34q,#fffbfb 41q,#fff 43q,#f9f9ff 47q,#f7f7ff 51q,#fafaff 54q,#fff 56q,#ffd7d7 63q,#fcc 67q,#ffd6d6 71q,#fff4f4 77q,#fff 80q,#f3f3ff 85q,#efefff 89q,#f4f4ff 93q,#fff 97q,#fff6f6 100q,#fff1f1 104q,#fff9f9 121q,#fffafa 126q,#fff4f4 130q,#ffd6d6 138q,#ffd0d0 141q,#ffd4d4 144q,#fdd 146q,#fffdfd 151q,#fcfcff 152q,#f3f3ff 154q,#efefff 157q,#f3f3ff 160q,#fff 164q,#fff5f5 167q,#fee 171q,#fff2f2 175q,#fff 180q,#f8f8ff 183q,#f5f5ff 187q,#fcfcff 200q,#fff 216q,#fff 263q"></i><i style="--g:#ffcfcf 0,#ffcbcb 1q,#f77 6q,#ff5c5c 9q,#ff5d5d 11q,#ff6868 12q,#ff8383 13q,#ffe2e2 14q,#9393ff 15q,#66f 16q,#5151ff 17q,#44f 19q,#5f5fff 23q,#9494ff 26q,#d5d5ff 28q,#f0f0ff 29q,#fffbfb 30q,#ffefef 31q,#ffe8e8 32q,#ffe4e4 34q,#fff8f8 42q,#fff 46q,#fff 52q,#fff9f9 55q,#fff2f2 57q,#ffdbdb 62q,#ffd2d2 66q,#ffd7d7 69q,#fff3f3 76q,#fff 80q,#f0f0ff 88q,#ececff 92q,#f0f0ff 96q,#fff 103q,#fffbfb 106q,#fffbfb 109q,#fff 119q,#fff 122q,#fdfdff 126q,#fff 130q,#fff7f7 133q,#ffd6d6 140q,#ffcfcf 144q,#ffdbdb 148q,#fffefe 154q,#f5f5ff 157q,#f3f3ff 159q,#f6f6ff 162q,#fff 165q,#fff0f0 170q,#ffecec 174q,#fff2f2 178q,#fff 183q,#fafaff 186q,#f8f8ff 190q,#fcfcff 200q,#fff 212q,#fff 263q"></i><i style="--g:#ffcaca 0,#ffc5c5 1q,#f77 6q,#ff5c5c 9q,#ff5d5d 11q,#f66 12q,#ff8282 13q,#ffe0e0 14q,#9393ff 15q,#66f 16q,#5151ff 17q,#44f 19q,#5f5fff 23q,#9393ff 26q,#d4d4ff 28q,#f0f0ff 29q,#fffbfb 30q,#ffeded 31q,#ffe5e5 32q,#ffe0e0 34q,#fff1f1 41q,#fff5f5 44q,#fff8f8 47q,#fff7f7 50q,#fff0f0 54q,#ffd5d5 61q,#ffcfcf 64q,#ffd7d7 68q,#fff1f1 74q,#fff8f8 76q,#fff 80q,#fbfbff 85q,#ebebff 93q,#e9e9ff 96q,#ebebff 99q,#f8f8ff 107q,#fafaff 110q,#fafaff 117q,#f3f3ff 129q,#f6f6ff 132q,#fff 135q,#ffdada 142q,#ffd1d1 146q,#ffdcdc 150q,#fffcfc 156q,#fff 157q,#f8f8ff 159q,#f6f6ff 161q,#f7f7ff 163q,#fefeff 166q,#fffdfd 167q,#ffefef 172q,#ffebeb 176q,#fee 179q,#fff 187q,#fcfcff 190q,#fbfbff 193q,#fff 205q,#fff 263q"></i><i style="--g:#ffc6c6 0,#ffc1c1 1q,#ff7575 6q,#ff5b5b 9q,#ff5d5d 11q,#f66 12q,#ff8383 13q,#ffe3e3 14q,#9292ff 15q,#66f 16q,#5151ff 17q,#44f 19q,#5e5eff 23q,#9191ff 26q,#adadff 27q,#d2d2ff 28q,#efefff 29q,#fffbfb 30q,#ffeded 31q,#ffe4e4 32q,#fdd 34q,#fee 43q,#fff0f0 46q,#ffefef 49q,#ffeaea 52q,#ffc9c9 60q,#ffc3c3 63q,#ffcdcd 67q,#fff0f0 73q,#fff8f8 75q,#fff 79q,#fffdfd 84q,#fff 88q,#ebebff 95q,#e5e5ff 100q,#f1f1ff 110q,#f4f4ff 115q,#f2f2ff 121q,#e9e9ff 130q,#eaeaff 133q,#f2f2ff 136q,#fbfbff 138q,#fffdfd 139q,#ffdfdf 144q,#ffd8d8 146q,#ffd5d5 148q,#ffdede 152q,#fff 159q,#f9f9ff 161q,#f7f7ff 163q,#fafaff 166q,#fff 168q,#fee 174q,#ffeaea 178q,#ffeded 181q,#fff9f9 187q,#fff 191q,#fff 263q"></i><i style="--g:#ffc3c3 0,#ffbebe 1q,#ff6969 7q,#ff5c5c 9q,#ff5d5d 11q,#ff6969 12q,#ff8585 13q,#ffebeb 14q,#8e8eff 15q,#6363ff 16q,#4f4fff 17q,#44f 19q,#5c5cff 23q,#8e8eff 26q,#a8a8ff 27q,#ceceff 28q,#ebebff 29q,#fffdfd 30q,#fee 31q,#ffe4e4 32q,#fdd 34q,#ffebeb 44q,#ffe8e8 49q,#ffe0e0 52q,#fbb 59q,#ffb0b0 63q,#ffc1c1 67q,#ffefef 73q,#fff9f9 75q,#fff 78q,#fff 79q,#fff5f5 87q,#fff8f8 90q,#fffefe 92q,#fcfcff 93q,#e9e9ff 98q,#e3e3ff 101q,#e2e2ff 104q,#eef 114q,#efefff 119q,#ececff 124q,#dfdfff 133q,#e1e1ff 136q,#e8e8ff 138q,#f2f2ff 140q,#fff 142q,#ffe7e7 146q,#ffdfdf 148q,#ffdbdb 150q,#ffe3e3 154q,#fffdfd 160q,#fefeff 161q,#f9f9ff 163q,#f7f7ff 166q,#fefeff 170q,#fffefe 171q,#fff0f0 176q,#ffebeb 180q,#fee 183q,#fffbfb 192q,#fff 198q,#fff 263q"></i><i style="--g:#ffc2c2 0,#ffbdbd 1q,#ff6a6a 7q,#ff5b5b 10q,#ff6b6b 12q,#f88 13q,#fff6f6 14q,#88f 15q,#6161ff 16q,#4e4eff 17q,#4141ff 19q,#5050ff 22q,#66f 24q,#a2a2ff 27q,#c7c7ff 28q,#e6e6ff 29q,#fcfcff 30q,#ffe7e7 32q,#fdd 34q,#fdd 36q,#ffe8e8 43q,#ffe6e6 48q,#ffdede 51q,#ffcece 54q,#faa 59q,#ff9f9f 63q,#ffa3a3 65q,#ffafaf 67q,#ffe9e9 73q,#fff6f6 75q,#fffcfc 77q,#fffdfd 78q,#fffcfc 80q,#ffeded 86q,#ffe9e9 89q,#fee 92q,#fff 96q,#efefff 99q,#e4e4ff 103q,#e3e3ff 106q,#ebebff 115q,#ededff 121q,#eaeaff 125q,#d9d9ff 133q,#d6d6ff 136q,#dadaff 139q,#e3e3ff 141q,#fcfcff 145q,#fffbfb 146q,#ffebeb 149q,#ffe4e4 151q,#ffe3e3 153q,#ffe9e9 156q,#fff 162q,#f8f8ff 164q,#f4f4ff 167q,#f7f7ff 170q,#fff 173q,#fff2f2 178q,#ffeded 182q,#ffefef 185q,#fffafa 194q,#fffdfd 201q,#fff 220q,#fff 263q"></i><i style="--g:#ffc0c0 0,#fbb 1q,#ff6a6a 7q,#ff5c5c 10q,#ff6e6e 12q,#ff8e8e 13q,#f9f9ff 14q,#8383ff 15q,#5e5eff 16q,#4b4bff 17q,#3f3fff 19q,#44f 21q,#66f 24q,#9c9cff 27q,#ddf 29q,#f5f5ff 30q,#fff8f8 31q,#ffeded 32q,#ffe2e2 34q,#ffe0e0 36q,#ffeaea 44q,#ffe7e7 48q,#fdd 51q,#ffcaca 54q,#ffa6a6 58q,#ff9595 63q,#f99 66q,#ffa5a5 68q,#ffdfdf 73q,#ffefef 75q,#fff8f8 77q,#fffafa 78q,#fffbfb 79q,#fff8f8 81q,#ffe0e0 88q,#ffdcdc 91q,#ffdfdf 93q,#ffe8e8 95q,#fff 99q,#f4f4ff 101q,#eaeaff 104q,#e7e7ff 108q,#eef 118q,#eef 123q,#eaeaff 127q,#d3d3ff 135q,#cfcfff 138q,#d3d3ff 141q,#dbdbff 143q,#fbfbff 148q,#fffdfd 149q,#ffefef 152q,#ffebeb 155q,#ffefef 158q,#fffdfd 162q,#fefeff 163q,#f5f5ff 166q,#f1f1ff 169q,#f6f6ff 173q,#fff 176q,#fff4f4 181q,#fff1f1 185q,#fffafa 197q,#fffdfd 204q,#fff 230q,#fff 263q"></i><i style="--g:#ffbfbf 0,#fbb 1q,#ff6b6b 7q,#ff5d5d 10q,#ff7070 12q,#ff9494 13q,#ebebff 14q,#7e7eff 15q,#5b5bff 16q,#4949ff 17q,#3d3dff 19q,#55f 23q,#9595ff 27q,#d3d3ff 29q,#ebebff 30q,#fdfdff 31q,#ffecec 33q,#ffe6e6 35q,#fee 44q,#ffebeb 48q,#ffe0e0 51q,#fcc 54q,#ffa3a3 58q,#ff9393 61q,#ff8e8e 64q,#ffa1a1 69q,#fdd 74q,#ffeded 76q,#fff6f6 78q,#fff8f8 79q,#fff8f8 80q,#fff4f4 82q,#ffd5d5 89q,#ffcfcf 93q,#ffdede 97q,#fffdfd 102q,#fcfcff 103q,#f4f4ff 105q,#efefff 108q,#f4f4ff 121q,#f2f2ff 126q,#ededff 129q,#d1d1ff 137q,#cacaff 141q,#d1d1ff 144q,#dbdbff 146q,#fff 152q,#fff6f6 154q,#fff1f1 157q,#fff5f5 160q,#fffefe 163q,#fdfdff 164q,#f2f2ff 168q,#eef 171q,#f3f3ff 175q,#fff 180q,#fff8f8 183q,#fff4f4 187q,#fffcfc 202q,#fff 224q,#fff 263q"></i><i style="--g:#ffbcbc 0,#ffb8b8 1q,#ff6b6b 7q,#ff5e5e 10q,#ff7272 12q,#f99 13q,#dedeff 14q,#7979ff 15q,#5858ff 16q,#4747ff 17q,#3c3cff 19q,#5353ff 23q,#8f8fff 27q,#a5a5ff 28q,#c6c6ff 29q,#e0e0ff 30q,#f3f3ff 31q,#fffefe 32q,#fff5f5 33q,#ffeded 35q,#ffeded 37q,#fff4f4 44q,#fff2f2 48q,#ffe8e8 51q,#ffd3d3 54q,#ffa5a5 58q,#ff9191 61q,#ff8a8a 64q,#ff8e8e 67q,#ff9f9f 70q,#ffdcdc 75q,#ffecec 77q,#fff4f4 79q,#fff5f5 80q,#fff5f5 81q,#fff1f1 83q,#ffe8e8 85q,#fcc 90q,#ffc3c3 94q,#ffd1d1 98q,#fff0f0 103q,#fffafa 105q,#fffdfd 106q,#fefeff 107q,#fafaff 109q,#f9f9ff 112q,#fdfdff 123q,#fcfcff 127q,#f5f5ff 131q,#eef 133q,#d2d2ff 139q,#cacaff 143q,#cfcfff 146q,#d8d8ff 148q,#fff 155q,#fff9f9 157q,#fff7f7 159q,#fffafa 162q,#fff 164q,#f1f1ff 169q,#ebebff 173q,#efefff 177q,#fff 183q,#fff9f9 187q,#fff8f8 190q,#fffcfc 202q,#fff 217q,#fff 263q"></i><i style="--g:#ffb8b8 0,#ffb3b3 1q,#ff7f7f 5q,#ff6363 8q,#ff5e5e 10q,#ff7474 12q,#ff9d9d 13q,#d6d6ff 14q,#77f 15q,#55f 16q,#44f 17q,#3a3aff 19q,#5050ff 23q,#88f 27q,#9d9dff 28q,#d4d4ff 30q,#e8e8ff 31q,#f6f6ff 32q,#fff 33q,#fff9f9 34q,#fff5f5 36q,#fffdfd 44q,#fffcfc 48q,#fff3f3 51q,#ffdfdf 54q,#ffa2a2 59q,#ff8f8f 62q,#f88 65q,#ff8e8e 68q,#ffa0a0 71q,#ffdcdc 76q,#ffebeb 78q,#fff3f3 80q,#fff5f5 81q,#fff5f5 82q,#fff0f0 84q,#ffe6e6 86q,#ffc7c7 91q,#fbb 95q,#ffc6c6 99q,#ffe8e8 105q,#fff1f1 107q,#fff9f9 111q,#fffbfb 116q,#fff6f6 128q,#fffafa 131q,#fff 133q,#f7f7ff 135q,#d7d7ff 141q,#ccf 145q,#ceceff 147q,#d8d8ff 150q,#f7f7ff 156q,#fff 158q,#fffafa 161q,#fffbfb 163q,#fff 165q,#eef 171q,#e9e9ff 175q,#ededff 179q,#fcfcff 186q,#fff 188q,#fffdfd 190q,#fffcfc 194q,#fff 208q,#fff 263q"></i><i style="--g:#ffb1b1 0,#ffacac 1q,#ff6262 8q,#ff5e5e 10q,#ff7373 12q,#ff9d9d 13q,#d4d4ff 14q,#77f 15q,#55f 16q,#44f 17q,#3939ff 19q,#4f4fff 23q,#8585ff 27q,#dedeff 31q,#ededff 32q,#f6f6ff 33q,#fdfdff 34q,#fffefe 35q,#fffcfc 37q,#fff 39q,#f8f8ff 46q,#fafaff 49q,#fff 51q,#fffafa 52q,#ffeded 54q,#ffd8d8 56q,#ffa2a2 60q,#ff9090 63q,#ff8a8a 66q,#ff9191 69q,#ffa4a4 72q,#ffcbcb 75q,#ffdfdf 77q,#fee 79q,#fff5f5 81q,#fff7f7 82q,#fff6f6 83q,#fff2f2 85q,#ffe8e8 87q,#ffc1c1 93q,#ffb8b8 97q,#ffbfbf 100q,#ffe6e6 108q,#ffefef 113q,#fff1f1 119q,#ffeaea 128q,#ffeaea 131q,#fff0f0 134q,#fffcfc 137q,#fdfdff 138q,#dfdfff 143q,#d7d7ff 145q,#d2d2ff 148q,#dbdbff 152q,#fbfbff 159q,#fefeff 160q,#fffefe 161q,#fffcfc 164q,#fff 166q,#fefeff 167q,#eef 173q,#e8e8ff 177q,#ebebff 181q,#fbfbff 189q,#fff 193q,#fff 263q"></i><i style="--g:#ffa8a8 0,#ff9c9c 2q,#ff6060 8q,#ff5c5c 10q,#ff7272 12q,#f99 13q,#d8d8ff 14q,#77f 15q,#55f 16q,#44f 17q,#3939ff 19q,#4d4dff 23q,#8181ff 27q,#a6a6ff 29q,#c1c1ff 30q,#d6d6ff 31q,#e5e5ff 32q,#efefff 33q,#f6f6ff 34q,#fafaff 35q,#fcfcff 37q,#f3f3ff 44q,#f0f0ff 48q,#f5f5ff 51q,#fdfdff 53q,#fffafa 54q,#fff2f2 55q,#ffdcdc 57q,#ffa5a5 61q,#ff9797 63q,#ff8f8f 66q,#ff9393 69q,#ffa4a4 72q,#fdd 77q,#fff2f2 80q,#fff9f9 82q,#fffbfb 83q,#fffbfb 84q,#fff7f7 86q,#fee 88q,#ffc7c7 94q,#fbb 98q,#ffbfbf 101q,#ffe1e1 110q,#ffe8e8 114q,#ffe9e9 120q,#ffdfdf 130q,#ffdfdf 134q,#ffebeb 138q,#fffcfc 141q,#fcfcff 142q,#e4e4ff 146q,#ddf 148q,#dadaff 150q,#e1e1ff 154q,#f9f9ff 160q,#fff 162q,#fffbfb 165q,#fffcfc 167q,#fff 169q,#efefff 175q,#e9e9ff 180q,#ebebff 183q,#fafaff 193q,#fdfdff 199q,#fff 211q,#fff 263q"></i><i style="--g:#ffa0a0 0,#ff9797 2q,#ff5e5e 8q,#ff5a5a 10q,#ff6f6f 12q,#ff9595 13q,#e2e2ff 14q,#7979ff 15q,#55f 16q,#44f 17q,#3a3aff 20q,#55f 24q,#7f7fff 27q,#a2a2ff 29q,#d1d1ff 31q,#e1e1ff 32q,#ebebff 33q,#f6f6ff 35q,#f8f8ff 36q,#f8f8ff 38q,#eef 45q,#ececff 49q,#f1f1ff 52q,#fafaff 54q,#fffdfd 55q,#ffeaea 57q,#faa 62q,#ff9c9c 64q,#ff9696 67q,#ff9c9c 70q,#ffa8a8 72q,#ffe6e6 78q,#fff4f4 80q,#fffdfd 82q,#fff 83q,#fcfcff 85q,#fff 87q,#fff7f7 89q,#ffcdcd 96q,#ffc3c3 100q,#ffc7c7 103q,#ffe0e0 112q,#ffe6e6 118q,#ffe3e3 124q,#ffd3d3 133q,#ffd4d4 137q,#ffe4e4 141q,#fffdfd 145q,#fafaff 146q,#eaeaff 149q,#e4e4ff 151q,#e3e3ff 153q,#ebebff 157q,#fefeff 162q,#fffdfd 163q,#fff9f9 165q,#fff8f8 167q,#fffafa 170q,#fff 172q,#f0f0ff 178q,#ebebff 182q,#ededff 185q,#fafaff 196q,#fcfcff 203q,#fff 236q,#fff 263q"></i><i style="--g:#f99 0,#ff9191 2q,#ff5c5c 8q,#ff5858 10q,#ff6b6b 12q,#ff8e8e 13q,#f0f0ff 14q,#7d7dff 15q,#5959ff 16q,#4646ff 17q,#3a3aff 20q,#55f 24q,#7e7eff 27q,#a0a0ff 29q,#cfcfff 31q,#dfdfff 32q,#eaeaff 33q,#f2f2ff 34q,#f6f6ff 35q,#f9f9ff 37q,#ededff 46q,#ebebff 50q,#f1f1ff 53q,#fbfbff 55q,#fffbfb 56q,#ffe9e9 58q,#ffb2b2 63q,#ffa3a3 65q,#ff9f9f 67q,#faa 71q,#ffefef 79q,#fffbfb 81q,#fff 82q,#f7f7ff 84q,#f5f5ff 86q,#f6f6ff 88q,#fffefe 91q,#ffe2e2 96q,#ffd3d3 100q,#ffd2d2 104q,#ffe5e5 115q,#ffe7e7 121q,#ffe2e2 126q,#ffcaca 137q,#ffcdcd 140q,#ffdada 143q,#fff 149q,#f1f1ff 152q,#ececff 155q,#f0f0ff 158q,#fff 163q,#fff6f6 166q,#fff4f4 169q,#fff6f6 172q,#fffdfd 175q,#fefeff 176q,#f2f2ff 181q,#efefff 185q,#f9f9ff 198q,#fcfcff 206q,#fff 242q,#fff 263q"></i><i style="--g:#ff9494 0,#ff8c8c 2q,#ff5959 8q,#f55 10q,#ff6868 12q,#f88 13q,#fff 14q,#8181ff 15q,#5b5bff 16q,#4848ff 17q,#3a3aff 19q,#4d4dff 23q,#7e7eff 27q,#a1a1ff 29q,#d1d1ff 31q,#e1e1ff 32q,#ededff 33q,#f4f4ff 34q,#f9f9ff 35q,#fdfdff 37q,#f0f0ff 49q,#f3f3ff 52q,#fefeff 55q,#fffbfb 56q,#ffecec 58q,#ffbfbf 63q,#ffadad 67q,#ffb9b9 71q,#ffecec 78q,#fffefe 81q,#fcfcff 82q,#f1f1ff 85q,#ededff 88q,#f0f0ff 91q,#fff 95q,#ffecec 99q,#ffe3e3 103q,#ffe2e2 107q,#ffeded 119q,#ffebeb 125q,#ffe6e6 128q,#fcc 136q,#ffc5c5 140q,#ffcaca 143q,#ffd2d2 145q,#fffcfc 152q,#fefeff 153q,#f7f7ff 155q,#f5f5ff 157q,#f8f8ff 160q,#fff 163q,#fff3f3 167q,#ffefef 171q,#fff4f4 175q,#fff 179q,#f5f5ff 184q,#f3f3ff 188q,#fafaff 201q,#fcfcff 210q,#fff 240q,#fff 263q"></i><i style="--g:#ff9090 0,#f88 2q,#ff5858 8q,#f55 10q,#f66 12q,#ff8484 13q,#fff4f4 14q,#8686ff 15q,#5d5dff 16q,#4949ff 17q,#3b3bff 19q,#5757ff 24q,#9090ff 28q,#a2a2ff 29q,#d4d4ff 31q,#e5e5ff 32q,#f1f1ff 33q,#f9f9ff 34q,#fff 35q,#fffcfc 36q,#fffbfb 38q,#fff 43q,#fcfcff 45q,#fafaff 48q,#fbfbff 50q,#fefeff 52q,#fffefe 53q,#fff1f1 56q,#ffc3c3 63q,#ffb9b9 67q,#ffc7c7 71q,#fff1f1 78q,#fff 81q,#eef 86q,#e6e6ff 91q,#ececff 95q,#fdfdff 100q,#fffefe 101q,#fff7f7 104q,#fff3f3 107q,#fff7f7 124q,#fff1f1 129q,#ffe8e8 132q,#ffcaca 139q,#ffc4c4 143q,#ffcfcf 147q,#fffafa 155q,#fff 157q,#fcfcff 159q,#fff 163q,#fff1f1 168q,#ffebeb 173q,#ffefef 177q,#fffefe 183q,#fff 184q,#fafaff 187q,#f8f8ff 191q,#fcfcff 205q,#fff 226q,#fff 263q"></i><i style="--g:#ff8c8c 0,#ff8585 2q,#f55 8q,#f55 10q,#f66 12q,#ff8282 13q,#fee 14q,#88f 15q,#5e5eff 16q,#4a4aff 17q,#3c3cff 19q,#4d4dff 23q,#8080ff 27q,#a4a4ff 29q,#d8d8ff 31q,#eaeaff 32q,#f7f7ff 33q,#fff 34q,#fff9f9 35q,#fff3f3 37q,#fff7f7 46q,#fff5f5 50q,#ffeded 53q,#ffe5e5 55q,#ffc4c4 61q,#fbb 65q,#ffc5c5 69q,#fff1f1 77q,#fff 81q,#e7e7ff 90q,#e0e0ff 95q,#e5e5ff 99q,#f6f6ff 106q,#fbfbff 110q,#fcfcff 115q,#fafaff 126q,#fcfcff 129q,#fff 130q,#fffafa 132q,#fff3f3 134q,#ffd0d0 141q,#ffc7c7 145q,#ffcfcf 149q,#fff2f2 156q,#fff9f9 158q,#fff 161q,#fffcfc 164q,#ffecec 171q,#ffe8e8 175q,#ffecec 179q,#fff 188q,#fcfcff 195q,#fff 212q,#fff 263q"></i><i style="--g:#ff8b8b 0,#ff8484 2q,#f55 8q,#f55 10q,#f66 12q,#ff8383 13q,#ffefef 14q,#88f 15q,#5e5eff 16q,#4a4aff 17q,#3c3cff 19q,#5757ff 24q,#9191ff 28q,#a5a5ff 29q,#c4c4ff 30q,#dcdcff 31q,#eef 32q,#fbfbff 33q,#fff9f9 34q,#fff3f3 35q,#ffecec 37q,#ffebeb 45q,#ffe7e7 49q,#ffdede 52q,#ffb4b4 60q,#ffacac 63q,#ffb6b6 67q,#ffe6e6 74q,#fff3f3 77q,#fff9f9 79q,#fff 83q,#fff 84q,#fbfbff 86q,#dedeff 95q,#d9d9ff 99q,#eaeaff 110q,#eef 114q,#ececff 130q,#f2f2ff 133q,#fdfdff 136q,#fffbfb 137q,#ffdada 143q,#ffd2d2 145q,#ffcece 148q,#ffd8d8 152q,#fff2f2 158q,#fff9f9 160q,#fffdfd 163q,#fffbfb 166q,#ffebeb 173q,#ffe6e6 177q,#ffeaea 181q,#fffafa 190q,#fff 195q,#fff 263q"></i><i style="--g:#ff8a8a 0,#ff8383 2q,#f55 8q,#f55 10q,#f66 12q,#f88 13q,#fffafa 14q,#8383ff 15q,#5c5cff 16q,#4949ff 17q,#3b3bff 19q,#55f 24q,#9090ff 28q,#a4a4ff 29q,#dcdcff 31q,#efefff 32q,#fefeff 33q,#fff6f6 34q,#ffeaea 36q,#ffe5e5 38q,#ffe1e1 45q,#ffdcdc 48q,#fcc 52q,#ffa4a4 58q,#f99 63q,#ffa5a5 67q,#fdd 73q,#ffeaea 75q,#fff5f5 78q,#fff7f7 80q,#fff7f7 86q,#fffafa 88q,#fff 90q,#dedeff 97q,#d3d3ff 102q,#e3e3ff 116q,#e3e3ff 121q,#dcdcff 130q,#e0e0ff 134q,#eef 138q,#fff 141q,#ffe6e6 145q,#fdd 147q,#ffd8d8 150q,#ffdfdf 154q,#fff5f5 160q,#fffbfb 162q,#fff 165q,#fffcfc 168q,#ffeaea 176q,#ffe7e7 180q,#fffafa 194q,#fffdfd 201q,#fff 230q,#fff 263q"></i><i style="--g:#ff8a8a 0,#ff8484 2q,#ff5858 8q,#f55 10q,#ff6b6b 12q,#ff8e8e 13q,#f1f1ff 14q,#7d7dff 15q,#5959ff 16q,#4747ff 17q,#3a3aff 20q,#6060ff 25q,#a1a1ff 29q,#d9d9ff 31q,#ededff 32q,#fcfcff 33q,#fff7f7 34q,#ffe9e9 36q,#ffe3e3 38q,#ffd7d7 47q,#ffcbcb 50q,#ffa0a0 56q,#ff9090 60q,#ff8c8c 63q,#ff9393 66q,#ffa4a4 69q,#ffd2d2 73q,#ffe3e3 75q,#fff0f0 78q,#fff1f1 80q,#ffe8e8 86q,#ffe9e9 89q,#fff2f2 92q,#fffdfd 94q,#fbfbff 95q,#e8e8ff 98q,#d6d6ff 102q,#d3d3ff 106q,#ddf 115q,#ddf 120q,#cfcfff 133q,#d4d4ff 137q,#e0e0ff 140q,#fff 145q,#ffeaea 149q,#ffe5e5 151q,#ffe3e3 153q,#ffe8e8 156q,#fffbfb 162q,#fff 164q,#fcfcff 167q,#fff 170q,#ffeded 178q,#ffe9e9 182q,#ffecec 186q,#fff9f9 197q,#fffcfc 205q,#fff 245q,#fff 263q"></i><i style="--g:#ff8b8b 0,#ff8585 2q,#ff5a5a 8q,#ff5959 10q,#ff7070 12q,#f99 13q,#d9d9ff 14q,#77f 15q,#55f 16q,#3737ff 19q,#4949ff 23q,#77f 27q,#9b9bff 29q,#d0d0ff 31q,#e6e6ff 32q,#f6f6ff 33q,#fffcfc 34q,#fff3f3 35q,#ffe8e8 37q,#ffd5d5 47q,#ffc6c6 50q,#f99 56q,#ff8181 63q,#ff8a8a 67q,#ff9d9d 70q,#ffcdcd 74q,#ffdede 76q,#ffe8e8 78q,#ffeaea 79q,#ffe7e7 82q,#ffd5d5 88q,#ffd6d6 91q,#fdd 93q,#ffe8e8 95q,#fff 98q,#eaeaff 101q,#ddf 104q,#d8d8ff 108q,#dedeff 117q,#ddf 122q,#c5c5ff 136q,#c9c9ff 139q,#d4d4ff 142q,#fefeff 149q,#fff3f3 152q,#ffefef 155q,#fff2f2 158q,#fff 163q,#f8f8ff 166q,#f6f6ff 169q,#f9f9ff 172q,#fff 175q,#fff2f2 180q,#ffeded 185q,#fff8f8 199q,#fffcfc 209q,#fff 263q"></i><i style="--g:#ff8c8c 0,#ff8686 2q,#ff5c5c 8q,#ff5b5b 10q,#ff7575 12q,#ffa6a6 13q,#c0c0ff 14q,#6f6fff 15q,#4141ff 17q,#33f 19q,#5050ff 24q,#9494ff 29q,#dadaff 32q,#ebebff 33q,#f8f8ff 34q,#fffcfc 35q,#fff5f5 36q,#ffecec 38q,#ffd9d9 47q,#ffc9c9 50q,#ff9595 56q,#ff8080 60q,#ff7a7a 64q,#ff8585 68q,#f99 71q,#ffd1d1 76q,#ffe1e1 79q,#ffe0e0 82q,#ffc3c3 89q,#ffc2c2 93q,#ffd9d9 97q,#fffafa 101q,#fdfdff 102q,#f1f1ff 104q,#e7e7ff 107q,#e3e3ff 111q,#e4e4ff 123q,#dedeff 127q,#c6c6ff 135q,#c0c0ff 139q,#ccf 144q,#f8f8ff 152q,#fff 154q,#fffafa 156q,#fff9f9 158q,#fff 162q,#f5f5ff 166q,#f0f0ff 170q,#f3f3ff 174q,#fff 179q,#fff6f6 183q,#fff2f2 188q,#fffafa 202q,#fffcfc 212q,#fff 263q"></i><i style="--g:#ff8c8c 0,#ff8686 2q,#ff6262 7q,#ff5e5e 10q,#ff7a7a 12q,#fbb 13q,#aaf 14q,#6969ff 15q,#3e3eff 17q,#33f 19q,#4d4dff 24q,#7d7dff 28q,#9d9dff 30q,#ccf 32q,#ddf 33q,#ebebff 34q,#f6f6ff 35q,#fdfdff 36q,#fffbfb 37q,#fff4f4 39q,#ffe7e7 46q,#ffd3d3 50q,#ff9090 57q,#ff7f7f 60q,#f77 64q,#ff7d7d 68q,#ff8e8e 71q,#fcc 77q,#ffdbdb 80q,#ffd8d8 83q,#ffafaf 91q,#ffb1b1 95q,#ffc3c3 98q,#fff3f3 104q,#fffefe 106q,#f6f6ff 109q,#f3f3ff 111q,#efefff 125q,#e7e7ff 129q,#c6c6ff 138q,#bfbfff 142q,#ccf 147q,#f0f0ff 154q,#f8f8ff 156q,#fdfdff 159q,#fbfbff 162q,#efefff 168q,#ebebff 172q,#eef 176q,#fff 184q,#fffafa 187q,#fff7f7 192q,#fffdfd 216q,#fff 263q"></i><i style="--g:#ff8b8b 0,#ff8585 2q,#ff5e5e 8q,#ff6868 11q,#ff7e7e 12q,#ffc8c8 13q,#9e9eff 14q,#66f 15q,#3c3cff 17q,#33f 19q,#4242ff 23q,#77f 28q,#a4a4ff 31q,#ceceff 33q,#dcdcff 34q,#efefff 36q,#f9f9ff 38q,#fff 40q,#fff9f9 44q,#fff2f2 47q,#ffe3e3 50q,#ffd2d2 52q,#ff9797 57q,#ff7d7d 61q,#ff7474 65q,#ff7d7d 69q,#ff8e8e 72q,#ffcbcb 78q,#ffd8d8 81q,#ffd3d3 84q,#ffa4a4 92q,#ffa2a2 96q,#ffb0b0 99q,#ffe4e4 106q,#fee 108q,#fff8f8 112q,#fffbfb 115q,#fffdfd 123q,#fff 126q,#fff 127q,#f8f8ff 130q,#eef 133q,#ceceff 140q,#c3c3ff 145q,#ccf 149q,#ededff 156q,#f3f3ff 158q,#f8f8ff 161q,#f7f7ff 164q,#e9e9ff 171q,#e7e7ff 175q,#ebebff 179q,#fff 189q,#fffcfc 196q,#fff 214q,#fff 263q"></i><i style="--g:#f88 0,#ff5d5d 8q,#ff6868 11q,#ff7e7e 12q,#fcc 13q,#9b9bff 14q,#66f 15q,#4a4aff 16q,#3030ff 19q,#4040ff 23q,#7373ff 28q,#9b9bff 31q,#cdcdff 34q,#d9d9ff 35q,#e7e7ff 37q,#ececff 38q,#f1f1ff 40q,#fafaff 46q,#fff 48q,#fffbfb 49q,#ffefef 51q,#ffdcdc 53q,#f99 58q,#ff7e7e 62q,#f77 66q,#ff7f7f 70q,#ff9292 73q,#ffcece 79q,#ffdada 82q,#ffd4d4 85q,#ffa5a5 92q,#ff9e9e 98q,#faa 101q,#fcc 106q,#ffdbdb 109q,#ffe6e6 113q,#ffebeb 117q,#fee 129q,#fff4f4 132q,#fff 135q,#dadaff 142q,#d1d1ff 144q,#ccf 147q,#d1d1ff 151q,#f3f3ff 160q,#f7f7ff 163q,#f5f5ff 166q,#e6e6ff 174q,#e5e5ff 178q,#fafaff 191q,#fff 197q,#fff 263q"></i><i style="--g:#ff8585 0,#ff5c5c 8q,#f66 11q,#ff7c7c 12q,#ffc5c5 13q,#9e9eff 14q,#66f 15q,#3b3bff 17q,#3030ff 19q,#3838ff 22q,#5959ff 26q,#a1a1ff 32q,#ccf 35q,#e0e0ff 38q,#e5e5ff 40q,#efefff 48q,#fdfdff 51q,#fffafa 52q,#fff1f1 53q,#ffd9d9 55q,#ff9d9d 59q,#ff8686 62q,#ff7a7a 66q,#ff8181 70q,#ff9191 73q,#ffd6d6 80q,#ffe1e1 83q,#ffdbdb 86q,#ffd0d0 88q,#ffa4a4 94q,#ff9e9e 99q,#ffa4a4 102q,#ffcece 110q,#ffd8d8 114q,#fdd 119q,#ffdada 129q,#ffdfdf 133q,#ffeded 137q,#fffefe 140q,#fafaff 141q,#e3e3ff 145q,#dcdcff 147q,#d7d7ff 150q,#ddf 154q,#f6f6ff 162q,#f9f9ff 165q,#f7f7ff 168q,#e7e7ff 176q,#e5e5ff 180q,#f9f9ff 195q,#fcfcff 203q,#fff 239q,#fff 263q"></i><i style="--g:#ff8080 0,#ff5d5d 7q,#ff5a5a 10q,#f77 12q,#ffb4b4 13q,#aaf 14q,#6868ff 15q,#3c3cff 17q,#3030ff 19q,#3838ff 22q,#5858ff 26q,#c5c5ff 35q,#d8d8ff 38q,#dfdfff 41q,#e7e7ff 49q,#eef 51q,#fcfcff 53q,#fff9f9 54q,#ffe1e1 56q,#ffa2a2 60q,#ff8c8c 63q,#ff8181 67q,#ff8a8a 71q,#ffa4a4 75q,#ffd2d2 79q,#ffe2e2 81q,#ffecec 84q,#ffe8e8 87q,#fdd 89q,#ffacac 96q,#ffa4a4 98q,#ffa4a4 101q,#ffc8c8 111q,#ffd2d2 116q,#ffd4d4 121q,#fcc 132q,#ffd4d4 137q,#ffe7e7 141q,#fff 145q,#efefff 148q,#e8e8ff 150q,#e4e4ff 153q,#e8e8ff 156q,#fafaff 163q,#fefeff 166q,#fcfcff 169q,#ececff 177q,#e8e8ff 182q,#f8f8ff 198q,#fbfbff 207q,#fff 263q"></i><i style="--g:#ff7b7b 0,#f55 9q,#ff5f5f 11q,#ff7171 12q,#ffa0a0 13q,#c1c1ff 14q,#6d6dff 15q,#3e3eff 17q,#33f 21q,#6d6dff 28q,#ccf 36q,#d9d9ff 39q,#e4e4ff 50q,#ececff 52q,#fafaff 54q,#fffbfb 55q,#ffe4e4 57q,#faa 61q,#ff9393 64q,#ff8b8b 68q,#ff9292 71q,#ffa3a3 74q,#ffd0d0 78q,#ffe2e2 80q,#fff5f5 83q,#fffafa 85q,#fffbfb 86q,#fffafa 87q,#fff4f4 89q,#ffeaea 91q,#ffc2c2 97q,#ffb4b4 102q,#fcc 113q,#ffd2d2 118q,#ffd0d0 124q,#ffc1c1 134q,#ffc6c6 139q,#ffd8d8 143q,#fffcfc 149q,#fefeff 150q,#f4f4ff 153q,#f1f1ff 156q,#f5f5ff 159q,#fff 163q,#fff9f9 168q,#fffbfb 171q,#fff 173q,#f0f0ff 180q,#ececff 185q,#f8f8ff 201q,#fbfbff 211q,#fff 263q"></i><i style="--g:#f77 0,#ff5252 9q,#ff5b5b 11q,#ff6c6c 12q,#ff9393 13q,#dbdbff 14q,#7474ff 15q,#5353ff 16q,#4141ff 17q,#33f 21q,#6e6eff 28q,#c6c6ff 35q,#cfcfff 36q,#ddf 39q,#e2e2ff 42q,#e4e4ff 48q,#eaeaff 51q,#f2f2ff 53q,#fff 55q,#ffebeb 57q,#ffa5a5 63q,#ff9797 68q,#faa 73q,#ffebeb 80q,#fff 83q,#f5f5ff 86q,#f4f4ff 88q,#f7f7ff 90q,#fff 92q,#fdd 98q,#ffd1d1 101q,#fcc 106q,#ffd8d8 116q,#ffd9d9 121q,#ffd4d4 126q,#fbb 138q,#ffbdbd 141q,#ffc8c8 144q,#ffefef 151q,#fff8f8 153q,#fffefe 155q,#fff 156q,#fdfdff 158q,#fff 161q,#fff5f5 166q,#fff2f2 170q,#fff5f5 174q,#fffefe 178q,#fefeff 179q,#f4f4ff 184q,#f1f1ff 189q,#f9f9ff 203q,#fcfcff 214q,#fff 263q"></i><i style="--g:#ff7373 0,#ff5151 10q,#f66 12q,#ff8a8a 13q,#f2f2ff 14q,#7b7bff 15q,#55f 16q,#44f 17q,#33f 20q,#4848ff 24q,#7b7bff 29q,#a1a1ff 32q,#c2c2ff 34q,#d7d7ff 36q,#e7e7ff 39q,#ececff 42q,#f1f1ff 49q,#f6f6ff 51q,#fdfdff 53q,#fffbfb 54q,#fee 56q,#ffb8b8 62q,#ffa4a4 65q,#ffa2a2 67q,#ffa7a7 70q,#ffb4b4 72q,#ffebeb 79q,#fff 82q,#ededff 86q,#e6e6ff 90q,#ededff 94q,#fff 98q,#fff2f2 101q,#ffe7e7 105q,#ffe5e5 109q,#ffe8e8 119q,#ffe5e5 124q,#ffdede 128q,#ffc0c0 137q,#ffb9b9 141q,#ffc3c3 146q,#ffe6e6 153q,#fff2f2 156q,#fff7f7 159q,#fff6f6 162q,#ffecec 169q,#ffebeb 173q,#fff0f0 177q,#fff 184q,#fafaff 187q,#f7f7ff 192q,#fdfdff 217q,#fff 263q"></i><i style="--g:#ff7171 0,#ff5050 10q,#f66 12q,#ff8585 13q,#fffdfd 14q,#8080ff 15q,#5959ff 16q,#44f 17q,#3636ff 20q,#4949ff 24q,#7e7eff 29q,#a8a8ff 32q,#ccf 34q,#e2e2ff 36q,#efefff 38q,#f4f4ff 39q,#fafaff 42q,#fff 46q,#fffafa 49q,#fff4f4 51q,#ffe7e7 54q,#ffb1b1 62q,#ffa6a6 66q,#ffb4b4 70q,#ffebeb 78q,#fffcfc 81q,#fefeff 82q,#e4e4ff 88q,#ddf 91q,#dadaff 94q,#e1e1ff 98q,#fafaff 106q,#fff 109q,#fffcfc 113q,#fffbfb 122q,#fff9f9 125q,#fff4f4 128q,#ffebeb 131q,#ffc6c6 140q,#ffbebe 144q,#ffc8c8 149q,#ffe2e2 155q,#ffecec 158q,#fff1f1 161q,#fff1f1 164q,#ffe6e6 172q,#ffe6e6 176q,#fff 190q,#fcfcff 197q,#fff 218q,#fff 263q"></i><i style="--g:#ff7070 0,#ff5050 10q,#f66 12q,#ff8585 13q,#fffbfb 14q,#8181ff 15q,#5a5aff 16q,#4646ff 17q,#3636ff 20q,#55f 25q,#8080ff 29q,#9d9dff 31q,#d7d7ff 34q,#e4e4ff 35q,#f6f6ff 37q,#fcfcff 38q,#fffdfd 39q,#fff6f6 41q,#ffe7e7 48q,#ffd7d7 52q,#ffa4a4 60q,#ff9e9e 64q,#ffa7a7 68q,#ffe2e2 76q,#fff2f2 79q,#fffdfd 82q,#fefeff 83q,#d7d7ff 93q,#cfcfff 98q,#eaeaff 113q,#efefff 125q,#f2f2ff 128q,#f9f9ff 131q,#fff 133q,#ffd7d7 141q,#fcc 144q,#ffc7c7 147q,#ffcdcd 151q,#ffecec 160q,#fff0f0 163q,#ffefef 166q,#ffe3e3 174q,#ffe3e3 178q,#fff9f9 192q,#fff 201q,#fff 263q"></i><i style="--g:#ff7070 0,#ff5252 10q,#f66 12q,#ff8a8a 13q,#f7f7ff 14q,#7e7eff 15q,#5959ff 16q,#44f 17q,#3737ff 19q,#3939ff 21q,#5d5dff 26q,#9090ff 30q,#dedeff 34q,#ececff 35q,#f7f7ff 36q,#fffefe 37q,#fff7f7 38q,#ffeded 40q,#ffd2d2 48q,#ffc2c2 51q,#ffa0a0 56q,#ff8f8f 63q,#ffa2a2 69q,#ffd1d1 74q,#ffdfdf 76q,#ffeded 79q,#fff 87q,#f8f8ff 89q,#d3d3ff 96q,#c9c9ff 99q,#c5c5ff 102q,#d9d9ff 115q,#dbdbff 128q,#e1e1ff 132q,#efefff 136q,#fff 139q,#ffe0e0 145q,#ffd9d9 147q,#ffd5d5 150q,#ffdada 154q,#fff0f0 162q,#fff2f2 165q,#fff1f1 168q,#ffe5e5 175q,#ffe3e3 179q,#ffe5e5 183q,#fff7f7 195q,#fffbfb 204q,#fff 246q,#fff 263q"></i><i style="--g:#ff7272 0,#ff5252 9q,#ff5c5c 11q,#ff6d6d 12q,#ff9595 13q,#dedeff 14q,#77f 15q,#55f 16q,#44f 17q,#3636ff 19q,#3c3cff 22q,#66f 27q,#a0a0ff 31q,#ceceff 33q,#e1e1ff 34q,#fcfcff 36q,#fff8f8 37q,#ffeaea 39q,#ffc7c7 47q,#ff9595 55q,#ff8181 62q,#ff8686 66q,#ff9b9b 70q,#ffd4d4 76q,#ffe2e2 79q,#ffebeb 88q,#fff2f2 90q,#fffcfc 92q,#fbfbff 93q,#d3d3ff 99q,#c6c6ff 102q,#c2c2ff 105q,#ceceff 117q,#cacaff 130q,#d0d0ff 135q,#e5e5ff 140q,#fcfcff 144q,#fffcfc 145q,#ffeaea 149q,#ffe4e4 153q,#ffe7e7 156q,#fff6f6 163q,#fff8f8 166q,#fff7f7 169q,#ffeaea 177q,#ffe6e6 182q,#fff6f6 199q,#fffafa 209q,#fffefe 263q"></i><i style="--g:#ff7474 0,#f55 9q,#ff6262 11q,#ff7575 12q,#ffa9a9 13q,#bbf 14q,#6e6eff 15q,#5050ff 16q,#3737ff 18q,#33f 20q,#5151ff 25q,#9c9cff 31q,#ddf 34q,#f9f9ff 36q,#fffafa 37q,#ffeaea 39q,#ffc6c6 46q,#ff9c9c 52q,#ff7e7e 58q,#ff7575 63q,#ff8c8c 70q,#ffcaca 77q,#ffd4d4 79q,#ffd6d6 82q,#ffd0d0 88q,#ffd7d7 91q,#ffe8e8 94q,#fff8f8 96q,#fdfdff 97q,#e4e4ff 100q,#ceceff 104q,#c7c7ff 108q,#cbcbff 121q,#bebeff 134q,#c4c4ff 138q,#cfcfff 141q,#f6f6ff 148q,#fff 150q,#fff6f6 153q,#fff3f3 156q,#fff6f6 159q,#fff 164q,#fdfdff 168q,#fff 171q,#ffefef 180q,#ffebeb 185q,#fff7f7 202q,#fffafa 212q,#fffefe 263q"></i><i style="--g:#f77 0,#ff5a5a 8q,#ff6868 11q,#ff7f7f 12q,#ffcece 13q,#9c9cff 14q,#66f 15q,#4b4bff 16q,#33f 19q,#4e4eff 25q,#9595ff 31q,#a5a5ff 32q,#d1d1ff 34q,#e2e2ff 35q,#fbfbff 37q,#fff9f9 38q,#ffebeb 40q,#ffcaca 46q,#ff9494 53q,#f77 58q,#ff6d6d 63q,#ff8080 70q,#ffbebe 78q,#ffc6c6 80q,#ffc6c6 82q,#ffb5b5 90q,#ffc3c3 94q,#ffdbdb 97q,#fff7f7 100q,#fefeff 101q,#eef 103q,#e2e2ff 105q,#dadaff 107q,#d4d4ff 111q,#d1d1ff 122q,#b7b7ff 137q,#c3c3ff 143q,#ececff 151q,#f8f8ff 154q,#fcfcff 156q,#fdfdff 158q,#fcfcff 161q,#f5f5ff 167q,#f4f4ff 170q,#f6f6ff 173q,#fff 178q,#fff5f5 183q,#fff1f1 189q,#fff8f8 205q,#fffbfb 216q,#fffefe 263q"></i><i style="--g:#f77 0,#ff5d5d 8q,#ff6e6e 11q,#ff8a8a 12q,#ffefef 13q,#8b8bff 14q,#5e5eff 15q,#4747ff 16q,#2e2eff 19q,#4b4bff 25q,#8c8cff 31q,#d2d2ff 35q,#ececff 37q,#fff 39q,#ffd6d6 46q,#ff9090 54q,#ff7373 59q,#ff6868 64q,#f77 70q,#ffb3b3 79q,#ffb9b9 81q,#ffb8b8 83q,#ffa0a0 90q,#ffa2a2 94q,#faa 96q,#ffebeb 103q,#fffbfb 105q,#fdfdff 106q,#f3f3ff 108q,#ececff 110q,#e7e7ff 113q,#dedeff 124q,#d6d6ff 128q,#bdbdff 136q,#b7b7ff 141q,#c2c2ff 146q,#eaeaff 155q,#f2f2ff 159q,#f2f2ff 162q,#ececff 169q,#ececff 173q,#f1f1ff 177q,#fff 184q,#fff9f9 188q,#fff7f7 193q,#fffcfc 218q,#fff 263q"></i><i style="--g:#f77 0,#ff6060 9q,#ff7373 11q,#ff9393 12q,#f7f7ff 13q,#8181ff 14q,#5959ff 15q,#44f 16q,#2f2fff 18q,#2c2cff 20q,#4747ff 25q,#8484ff 31q,#d9d9ff 37q,#ebebff 39q,#fff 42q,#ffe2e2 47q,#ffd2d2 49q,#ffa2a2 53q,#ff9090 55q,#ff7171 60q,#f66 65q,#f77 71q,#ffb0b0 81q,#ffb1b1 83q,#ff9595 92q,#ff9797 96q,#ffa1a1 99q,#ffdede 106q,#ffefef 109q,#fff7f7 111q,#fff 114q,#fff 115q,#f3f3ff 125q,#eaeaff 129q,#c4c4ff 139q,#bcbcff 144q,#c6c6ff 149q,#e4e4ff 157q,#ececff 161q,#ececff 164q,#e5e5ff 172q,#e6e6ff 176q,#fff 190q,#fffcfc 199q,#fff 219q,#fff 263q"></i><i style="--g:#f77 0,#ff6060 9q,#ff7575 11q,#ff9797 12q,#ededff 13q,#7e7eff 14q,#5757ff 15q,#4242ff 16q,#2e2eff 18q,#2d2dff 21q,#7272ff 30q,#ceceff 38q,#dedeff 40q,#fff 46q,#fffafa 47q,#ffeaea 49q,#ffd6d6 51q,#ff9e9e 55q,#f77 60q,#f66 66q,#f77 72q,#ffb1b1 82q,#ffb0b0 84q,#ff9090 93q,#ff9393 99q,#ffa4a4 103q,#ffc3c3 107q,#ffd5d5 110q,#ffe2e2 114q,#fff4f4 127q,#fffefe 131q,#fdfdff 132q,#d4d4ff 141q,#cacaff 144q,#c7c7ff 147q,#ccf 151q,#e4e4ff 159q,#e9e9ff 162q,#eaeaff 165q,#e3e3ff 173q,#e3e3ff 178q,#f9f9ff 193q,#fff 203q,#fff 263q"></i><i style="--g:#ff7575 0,#ff5f5f 9q,#ff7272 11q,#ff9494 12q,#f4f4ff 13q,#7f7fff 14q,#5858ff 15q,#44f 16q,#2e2eff 18q,#2a2aff 20q,#5c5cff 28q,#cbcbff 40q,#ededff 47q,#fafaff 49q,#fffbfb 50q,#ffe6e6 52q,#ffcaca 54q,#ffa6a6 56q,#ff8181 60q,#ff6c6c 66q,#ff7f7f 73q,#ffb3b3 81q,#ffb9b9 83q,#ffb8b8 85q,#ff9191 94q,#ff9292 101q,#ffa4a4 106q,#ffc0c0 111q,#fcc 115q,#ffe1e1 131q,#fee 135q,#fffdfd 138q,#fcfcff 139q,#e3e3ff 144q,#d9d9ff 147q,#d5d5ff 150q,#d7d7ff 153q,#e9e9ff 161q,#ededff 164q,#ededff 167q,#e3e3ff 175q,#e2e2ff 180q,#f6f6ff 196q,#fbfbff 205q,#fff 263q"></i><i style="--g:#ff7171 0,#ff5c5c 9q,#ff6d6d 11q,#ff8b8b 12q,#fff5f5 13q,#88f 14q,#5b5bff 15q,#44f 16q,#2f2fff 18q,#2b2bff 20q,#4a4aff 26q,#bdbdff 40q,#e5e5ff 49q,#f5f5ff 51q,#fff 52q,#ffe7e7 54q,#ffa3a3 58q,#ff8181 62q,#ff7474 67q,#f88 74q,#ffbebe 81q,#ffcaca 84q,#ffc4c4 87q,#ff9b9b 94q,#ff9292 98q,#ff9494 102q,#ffc0c0 117q,#ffc8c8 131q,#ffd4d4 136q,#ffe7e7 140q,#fffdfd 144q,#fcfcff 145q,#ebebff 149q,#e5e5ff 153q,#e7e7ff 156q,#f2f2ff 163q,#f4f4ff 166q,#f3f3ff 169q,#e8e8ff 177q,#e5e5ff 182q,#f6f6ff 200q,#fafaff 211q,#fefeff 263q"></i><i style="--g:#ff6d6d 0,#f55 8q,#f66 11q,#ff7f7f 12q,#ffd4d4 13q,#9595ff 14q,#6262ff 15q,#4848ff 16q,#33f 18q,#2c2cff 20q,#4a4aff 26q,#b7b7ff 40q,#dfdfff 50q,#f7f7ff 53q,#fffcfc 54q,#ffe1e1 56q,#ffa1a1 60q,#ff8585 64q,#ff7e7e 68q,#ff9696 75q,#ffd5d5 82q,#ffdfdf 85q,#ffdbdb 88q,#ffd2d2 90q,#ffa7a7 96q,#ff9c9c 100q,#ffa0a0 106q,#fbb 118q,#ffbaba 134q,#ffcaca 140q,#fff8f8 149q,#fff 151q,#f9f9ff 153q,#f6f6ff 156q,#f7f7ff 159q,#fff 167q,#fcfcff 171q,#ededff 180q,#eaeaff 185q,#f6f6ff 203q,#fafaff 215q,#fefeff 263q"></i><i style="--g:#ff6969 0,#f55 9q,#ff6161 11q,#ff7575 12q,#ffafaf 13q,#b0b0ff 14q,#6a6aff 15q,#4d4dff 16q,#33f 18q,#33f 22q,#bebeff 41q,#d4d4ff 48q,#e2e2ff 51q,#f9f9ff 54q,#fffafa 55q,#ffe2e2 57q,#ffa8a8 61q,#ff9393 64q,#ff8a8a 68q,#ff9393 72q,#ffa3a3 75q,#ffdede 81q,#fff1f1 84q,#fff7f7 86q,#fff8f8 87q,#fff7f7 88q,#fff2f2 90q,#ffe9e9 92q,#ffc3c3 98q,#ffb6b6 101q,#ffb2b2 106q,#ffc2c2 120q,#ffb2b2 136q,#ffb7b7 140q,#ffc1c1 143q,#ffe8e8 151q,#fff3f3 154q,#fff8f8 157q,#fff9f9 160q,#fff5f5 167q,#fff5f5 170q,#fff8f8 173q,#fff 177q,#f4f4ff 183q,#f0f0ff 189q,#f8f8ff 207q,#fbfbff 218q,#fefeff 263q"></i><i style="--g:#f66 0,#ff5050 9q,#ff5c5c 11q,#ff6d6d 12q,#ff9797 13q,#d5d5ff 14q,#7474ff 15q,#5353ff 16q,#4141ff 17q,#33f 19q,#3535ff 22q,#5d5dff 28q,#bebeff 39q,#c9c9ff 41q,#ececff 51q,#fff 54q,#ffeded 56q,#faa 62q,#ff9e9e 64q,#ff9797 68q,#ffa5a5 73q,#ffe5e5 80q,#fff4f4 82q,#fffbfb 83q,#fefeff 84q,#f5f5ff 86q,#efefff 89q,#f3f3ff 92q,#fff 95q,#ffe9e9 99q,#ffd9d9 103q,#ffd1d1 108q,#ffd2d2 122q,#ffcaca 127q,#ffb4b4 136q,#ffb1b1 140q,#ffbebe 146q,#ffe4e4 155q,#ffecec 159q,#ffecec 173q,#fff 184q,#f9f9ff 188q,#f7f7ff 194q,#fcfcff 220q,#fff 263q"></i><i style="--g:#ff6363 0,#ff5151 10q,#ff6969 12q,#ff8d8d 13q,#f0f0ff 14q,#7c7cff 15q,#5858ff 16q,#44f 17q,#33f 21q,#6969ff 29q,#a3a3ff 35q,#c6c6ff 38q,#dbdbff 41q,#fdfdff 50q,#fffcfc 51q,#ffeaea 54q,#ffb0b0 61q,#ffa4a4 63q,#ff9e9e 66q,#ffa4a4 70q,#ffb0b0 72q,#ffe8e8 79q,#fffcfc 82q,#fbfbff 83q,#e7e7ff 87q,#e1e1ff 89q,#dcdcff 92q,#ddf 94q,#e4e4ff 97q,#fff 104q,#fff4f4 109q,#ffe8e8 124q,#fdd 129q,#ffbfbf 138q,#ffb7b7 143q,#ffbebe 148q,#ffdede 157q,#ffe5e5 161q,#ffe3e3 172q,#ffe5e5 176q,#fff 191q,#fcfcff 201q,#fff 225q,#fff 263q"></i><i style="--g:#ff6363 0,#ff5151 10q,#f66 12q,#ff8a8a 13q,#fafaff 14q,#8080ff 15q,#5b5bff 16q,#4747ff 17q,#3737ff 21q,#5252ff 26q,#8c8cff 32q,#cfcfff 37q,#eaeaff 40q,#f6f6ff 42q,#fff 44q,#ffe4e4 50q,#ffa6a6 59q,#f99 64q,#ffa8a8 70q,#ffe5e5 78q,#fff7f7 81q,#fffcfc 82q,#fdfdff 83q,#dbdbff 90q,#ceceff 94q,#ccf 97q,#d1d1ff 101q,#e7e7ff 109q,#eef 113q,#f8f8ff 123q,#fefeff 127q,#fffefe 128q,#fff2f2 132q,#fcc 141q,#ffc2c2 147q,#ffc8c8 151q,#ffdbdb 158q,#ffe2e2 162q,#ffe1e1 178q,#fff8f8 193q,#fffdfd 201q,#fff 214q,#fff 263q"></i><i style="--g:#ff6363 0,#ff5353 10q,#ff6b6b 12q,#ff8f8f 13q,#f0f0ff 14q,#7e7eff 15q,#5a5aff 16q,#4747ff 17q,#3838ff 21q,#5d5dff 27q,#9191ff 32q,#d2d2ff 36q,#ebebff 38q,#fdfdff 40q,#fffafa 41q,#ffd1d1 48q,#ffa6a6 54q,#ff9494 58q,#ff8b8b 63q,#ff9f9f 70q,#ffd2d2 76q,#ffe5e5 79q,#fff 85q,#f7f7ff 87q,#ccf 95q,#c2c2ff 98q,#bdbdff 101q,#d5d5ff 115q,#dfdfff 126q,#e6e6ff 130q,#efefff 133q,#fbfbff 136q,#fffefe 137q,#ffe1e1 143q,#ffd7d7 146q,#ffd2d2 150q,#ffe6e6 164q,#ffe0e0 180q,#fff5f5 197q,#fffafa 207q,#fff 263q"></i><i style="--g:#f66 0,#f55 9q,#ff5f5f 11q,#ff7272 12q,#ff9d9d 13q,#d4d4ff 14q,#77f 15q,#55f 16q,#3737ff 19q,#44f 24q,#7171ff 29q,#a2a2ff 33q,#dcdcff 36q,#f7f7ff 38q,#fffdfd 39q,#ffebeb 41q,#ffa8a8 50q,#f88 56q,#ff7c7c 62q,#ff8484 67q,#f99 71q,#ffcbcb 77q,#ffdbdb 80q,#ffefef 87q,#fffdfd 90q,#fbfbff 91q,#ccf 98q,#bdbdff 101q,#b6b6ff 105q,#c3c3ff 117q,#cacaff 129q,#d4d4ff 134q,#e3e3ff 138q,#fcfcff 143q,#fffdfd 144q,#ffecec 148q,#ffe4e4 152q,#ffe5e5 156q,#ffefef 166q,#ffe3e3 181q,#ffe5e5 186q,#fff5f5 201q,#fff9f9 211q,#fffefe 263q"></i><i style="--g:#ff6969 0,#ff5757 8q,#f66 11q,#ff7e7e 12q,#ffc3c3 13q,#aaf 14q,#6c6cff 15q,#4141ff 17q,#33f 19q,#3e3eff 23q,#5c5cff 27q,#a2a2ff 33q,#ddf 36q,#fafaff 38q,#fff8f8 39q,#ffe4e4 41q,#ffa2a2 49q,#ff7e7e 56q,#ff7070 62q,#ff8484 70q,#fbb 78q,#ffc5c5 80q,#ffd3d3 88q,#ffdfdf 91q,#fffcfc 95q,#f9f9ff 96q,#d1d1ff 101q,#bebeff 105q,#b9b9ff 110q,#bbf 131q,#c4c4ff 137q,#f9f9ff 149q,#fdfdff 150q,#fffefe 151q,#fff9f9 153q,#fff6f6 156q,#fffafa 165q,#fff9f9 169q,#ffebeb 180q,#ffe9e9 185q,#fff5f5 204q,#fff9f9 215q,#fffdfd 263q"></i><i style="--g:#ff6c6c 0,#ff5d5d 8q,#ff7171 11q,#ff8f8f 12q,#fff4f4 13q,#8d8dff 14q,#6161ff 15q,#4a4aff 16q,#33f 18q,#33f 20q,#5959ff 27q,#9c9cff 33q,#d6d6ff 36q,#f4f4ff 38q,#fffefe 39q,#ffe8e8 41q,#ffa6a6 48q,#f77 56q,#f66 63q,#f77 70q,#ffb0b0 81q,#ffb2b2 89q,#ffc2c2 93q,#ffd9d9 96q,#fff7f7 99q,#fdfdff 100q,#e4e4ff 103q,#ceceff 107q,#c5c5ff 111q,#b3b3ff 135q,#c0c0ff 142q,#efefff 153q,#f7f7ff 157q,#f9f9ff 160q,#f8f8ff 169q,#fbfbff 173q,#fff 175q,#fff 176q,#fff3f3 183q,#fff0f0 189q,#fffafa 218q,#fffdfd 263q"></i><i style="--g:#ff7070 0,#ff6262 8q,#ff6c6c 10q,#ff7d7d 11q,#ffa5a5 12q,#dcdcff 13q,#7c7cff 14q,#5959ff 15q,#33f 18q,#3939ff 23q,#7171ff 30q,#a0a0ff 34q,#d6d6ff 37q,#e5e5ff 38q,#fdfdff 40q,#fff6f6 41q,#ffa4a4 49q,#f77 56q,#ff6262 64q,#ff6f6f 70q,#ff9e9e 81q,#f99 91q,#ffa4a4 95q,#fff9f9 104q,#fdfdff 105q,#f0f0ff 107q,#e3e3ff 110q,#dbdbff 113q,#ceceff 123q,#b7b7ff 134q,#b2b2ff 139q,#bbf 144q,#e2e2ff 155q,#eaeaff 159q,#eef 173q,#fff 183q,#fff 184q,#fff9f9 188q,#fff7f7 194q,#fffcfc 222q,#fffefe 263q"></i><i style="--g:#ff7272 0,#f66 7q,#ff7272 10q,#f88 11q,#ffc6c6 12q,#b9b9ff 13q,#7272ff 14q,#4040ff 16q,#2c2cff 20q,#44f 25q,#9f9fff 35q,#dbdbff 39q,#fcfcff 42q,#fff8f8 43q,#ffdbdb 46q,#ffa0a0 51q,#ff7070 58q,#ff6060 65q,#ff6969 70q,#ff9696 81q,#ff8e8e 93q,#ff9696 97q,#ffa4a4 100q,#ffd5d5 105q,#ffebeb 108q,#fff7f7 110q,#fff 112q,#f7f7ff 115q,#e4e4ff 125q,#bebeff 138q,#b9b9ff 143q,#bebeff 147q,#dbdbff 157q,#e2e2ff 161q,#e7e7ff 176q,#f9f9ff 187q,#fff 192q,#fffcfc 202q,#fff 227q,#fff 263q"></i><i style="--g:#ff7373 0,#f66 7q,#f77 10q,#ff8c8c 11q,#ffd5d5 12q,#a7a7ff 13q,#6d6dff 14q,#5050ff 15q,#33f 17q,#2a2aff 19q,#4e4eff 27q,#9c9cff 36q,#d8d8ff 41q,#fefeff 45q,#fff7f7 46q,#ffeded 47q,#ffd6d6 49q,#ff9e9e 53q,#ff7171 59q,#ff6161 66q,#ff6b6b 71q,#ff9595 82q,#ff8686 94q,#ff9191 100q,#ffa3a3 104q,#ffc3c3 108q,#ffd5d5 111q,#ffe5e5 115q,#fff 127q,#d0d0ff 140q,#c8c8ff 143q,#c5c5ff 147q,#e0e0ff 162q,#e2e2ff 178q,#f7f7ff 193q,#fdfdff 202q,#fff 214q,#fff 263q"></i><i style="--g:#ff7171 0,#f66 7q,#ff7474 10q,#ff8a8a 11q,#ffd1d1 12q,#aaf 13q,#6e6eff 14q,#3e3eff 16q,#2929ff 20q,#3e3eff 25q,#a0a0ff 38q,#fdfdff 48q,#fff6f6 49q,#fdd 51q,#ff9d9d 55q,#f77 60q,#f66 66q,#ff6c6c 71q,#f99 83q,#ff8585 95q,#ff8d8d 102q,#ffc8c8 116q,#ffebeb 131q,#fffafa 135q,#fff 136q,#e2e2ff 143q,#d9d9ff 146q,#d4d4ff 150q,#e4e4ff 164q,#e0e0ff 176q,#e2e2ff 181q,#f5f5ff 197q,#fafaff 208q,#fefeff 263q"></i><i style="--g:#ff6e6e 0,#ff6363 8q,#ff6f6f 10q,#ff8282 11q,#fbb 12q,#c3c3ff 13q,#7474ff 14q,#55f 15q,#2e2eff 18q,#3838ff 24q,#a2a2ff 40q,#d9d9ff 47q,#f6f6ff 50q,#fffdfd 51q,#ffe1e1 53q,#ff9e9e 57q,#ff7d7d 61q,#ff6c6c 67q,#ff7575 72q,#ffa3a3 83q,#ffa1a1 87q,#f88 96q,#f88 101q,#ffb6b6 118q,#ffcfcf 132q,#ffe0e0 137q,#fffcfc 143q,#fdfdff 144q,#eef 148q,#e7e7ff 152q,#e6e6ff 156q,#ececff 166q,#e3e3ff 181q,#f5f5ff 202q,#f9f9ff 213q,#fdfdff 263q"></i><i style="--g:#ff6a6a 0,#ff6161 9q,#f77 11q,#ff9c9c 12q,#ebebff 13q,#8080ff 14q,#5a5aff 15q,#44f 16q,#3030ff 18q,#2d2dff 21q,#a5a5ff 42q,#d6d6ff 49q,#f4f4ff 52q,#fffdfd 53q,#ffefef 54q,#ff9e9e 59q,#ff8282 63q,#f77 68q,#ff8585 74q,#ffb9b9 83q,#ffbebe 85q,#ffbaba 88q,#f99 95q,#ff8f8f 101q,#ffadad 119q,#ffb9b9 133q,#ffcbcb 139q,#ffefef 147q,#fffafa 150q,#fff 152q,#fcfcff 153q,#f8f8ff 156q,#f8f8ff 168q,#ebebff 180q,#e9e9ff 185q,#f5f5ff 205q,#f9f9ff 217q,#fdfdff 263q"></i><i style="--g:#f66 0,#ff5959 8q,#ff6d6d 11q,#f88 12q,#ffe4e4 13q,#9494ff 14q,#6464ff 15q,#4b4bff 16q,#33f 18q,#2f2fff 20q,#44f 26q,#d6d6ff 50q,#e7e7ff 52q,#fdfdff 54q,#fff4f4 55q,#faa 60q,#ff9191 63q,#ff8484 68q,#ff8a8a 72q,#ff9c9c 76q,#ffd3d3 83q,#fdd 86q,#fdd 88q,#ffd7d7 90q,#faa 98q,#ffa1a1 101q,#ffa0a0 107q,#ffb0b0 120q,#ffafaf 135q,#ffbfbf 142q,#ffebeb 153q,#fff3f3 157q,#fff6f6 160q,#fff9f9 169q,#fff 175q,#f5f5ff 182q,#f0f0ff 189q,#fafaff 221q,#fdfdff 263q"></i><i style="--g:#ff6262 0,#f55 9q,#f66 11q,#ff7a7a 12q,#ffb6b6 13q,#b8b8ff 14q,#7070ff 15q,#5353ff 16q,#33f 19q,#3d3dff 24q,#e2e2ff 51q,#fcfcff 54q,#fff8f8 55q,#ffa6a6 62q,#ff9797 65q,#ff9292 68q,#f99 72q,#ffa8a8 75q,#ffe5e5 82q,#fff5f5 85q,#fffbfb 87q,#fffcfc 89q,#fff6f6 92q,#ffc5c5 103q,#ffbdbd 108q,#ffbfbf 122q,#ffaeae 137q,#ffb8b8 144q,#ffdbdb 154q,#ffe6e6 159q,#fff0f0 174q,#fff 183q,#f9f9ff 189q,#f7f7ff 195q,#fcfcff 224q,#fefeff 263q"></i><i style="--g:#ff6060 0,#f55 9q,#ff6060 11q,#ff7272 12q,#ff9b9b 13q,#dfdfff 14q,#7c7cff 15q,#5a5aff 16q,#4848ff 17q,#3838ff 19q,#3939ff 22q,#66f 30q,#c8c8ff 43q,#fcfcff 52q,#fffafa 53q,#ffb3b3 61q,#ffa5a5 63q,#ff9d9d 67q,#ffa3a3 71q,#ffafaf 73q,#fee 81q,#fffbfb 83q,#fdfdff 84q,#ececff 88q,#e7e7ff 92q,#efefff 96q,#fff 100q,#fff0f0 104q,#ffe8e8 107q,#ffe2e2 111q,#ffd9d9 122q,#ffb9b9 137q,#ffb4b4 142q,#fbb 147q,#ffd6d6 157q,#fdd 161q,#ffe7e7 176q,#fff8f8 187q,#fff 193q,#fdfdff 204q,#fff 234q,#fff 263q"></i><i style="--g:#ff5f5f 0,#f55 10q,#ff6f6f 12q,#ff9393 13q,#f3f3ff 14q,#8484ff 15q,#5f5fff 16q,#4c4cff 17q,#3a3aff 21q,#55f 27q,#8c8cff 34q,#d3d3ff 41q,#efefff 45q,#fbfbff 47q,#fffdfd 48q,#ffeaea 51q,#ffaeae 59q,#ffa3a3 61q,#ff9c9c 65q,#ffa2a2 69q,#ffacac 71q,#fffafa 82q,#fefeff 83q,#dfdfff 89q,#d5d5ff 92q,#d1d1ff 96q,#d7d7ff 100q,#f5f5ff 111q,#fff 118q,#fff4f4 125q,#ffebeb 129q,#ffcbcb 139q,#ffc1c1 146q,#ffdada 162q,#ffe0e0 177q,#fff7f7 194q,#fffcfc 203q,#fff 222q,#fff 263q"></i><i style="--g:#ff6060 0,#ff5858 10q,#ff7171 12q,#ff9696 13q,#f0f0ff 14q,#8484ff 15q,#6161ff 16q,#4e4eff 17q,#3d3dff 19q,#3e3eff 22q,#6969ff 29q,#a0a0ff 35q,#ccf 38q,#e3e3ff 40q,#fff 43q,#ffa5a5 55q,#ff9595 59q,#ff9090 63q,#ff9595 67q,#ffa4a4 71q,#ffe2e2 79q,#fff 84q,#d1d1ff 93q,#c6c6ff 96q,#bfbfff 100q,#c3c3ff 104q,#d7d7ff 114q,#ededff 127q,#fefeff 133q,#fffdfd 134q,#ffdfdf 142q,#ffd5d5 146q,#ffd1d1 150q,#ffdfdf 164q,#ffe0e0 180q,#fff4f4 198q,#fff9f9 209q,#fff 263q"></i><i style="--g:#ff6363 0,#ff5959 9q,#f66 11q,#ff7a7a 12q,#ffa8a8 13q,#d5d5ff 14q,#7d7dff 15q,#5d5dff 16q,#3d3dff 19q,#4e4eff 25q,#7474ff 30q,#9e9eff 34q,#dfdfff 38q,#f8f8ff 40q,#fffcfc 41q,#ffa3a3 51q,#ff8b8b 56q,#ff8080 62q,#f88 67q,#ff9d9d 72q,#ffc5c5 77q,#ffd8d8 80q,#fffdfd 88q,#fcfcff 89q,#cacaff 97q,#babaff 101q,#b4b4ff 105q,#cdcdff 126q,#dadaff 132q,#eaeaff 137q,#fff 142q,#fff0f0 146q,#ffe5e5 151q,#ffe3e3 155q,#ffe8e8 167q,#ffe2e2 180q,#ffe5e5 186q,#fff4f4 202q,#fff8f8 214q,#fffdfd 263q"></i><i style="--g:#f66 0,#ff5d5d 8q,#ff7171 11q,#f88 12q,#ffd6d6 13q,#a8a8ff 14q,#7171ff 15q,#55f 16q,#3f3fff 18q,#3a3aff 20q,#6363ff 28q,#a1a1ff 34q,#d9d9ff 37q,#f6f6ff 39q,#fffbfb 40q,#ffa6a6 48q,#ff8181 55q,#ff7373 62q,#ff8484 70q,#ffc3c3 81q,#ffe1e1 89q,#fffafa 93q,#fdfdff 94q,#c9c9ff 101q,#b8b8ff 105q,#b3b3ff 110q,#bbf 128q,#c7c7ff 135q,#f7f7ff 148q,#fff 151q,#fffafa 153q,#fff6f6 156q,#fff4f4 168q,#ffe9e9 184q,#fff5f5 206q,#fff8f8 218q,#fffdfd 263q"></i><i style="--g:#ff6c6c 0,#f66 8q,#ff6f6f 10q,#ff7f7f 11q,#ffa3a3 12q,#efefff 13q,#8a8aff 14q,#66f 15q,#44f 17q,#3838ff 19q,#3c3cff 22q,#6a6aff 29q,#9f9fff 34q,#d6d6ff 37q,#f6f6ff 39q,#fffbfb 40q,#ffa9a9 47q,#ff7e7e 54q,#ff6969 63q,#ff7474 69q,#ffa0a0 79q,#ffbaba 89q,#ffc8c8 92q,#ffdede 95q,#fff9f9 98q,#fcfcff 99q,#e3e3ff 102q,#c7c7ff 107q,#bbf 113q,#b4b4ff 131q,#c1c1ff 140q,#ebebff 152q,#f5f5ff 157q,#fff 172q,#fff 173q,#fff4f4 182q,#fff0f0 189q,#fffafa 221q,#fffdfd 263q"></i><i style="--g:#ff7171 0,#ff6a6a 7q,#ff7c7c 10q,#ff9292 11q,#ffd7d7 12q,#b8b8ff 13q,#77f 14q,#4848ff 16q,#33f 20q,#4f4fff 26q,#8181ff 32q,#a3a3ff 35q,#dadaff 38q,#f8f8ff 40q,#fff9f9 41q,#ffa3a3 48q,#f77 55q,#ff6363 64q,#ff6e6e 70q,#ff9696 81q,#ff9c9c 90q,#ffa8a8 94q,#fff8f8 103q,#fefeff 104q,#e9e9ff 107q,#d8d8ff 111q,#ccf 116q,#b5b5ff 136q,#bdbdff 143q,#ddf 154q,#e7e7ff 159q,#f2f2ff 173q,#fff 183q,#fffafa 188q,#fff7f7 195q,#fffbfb 224q,#fffdfd 263q"></i><i style="--g:#ff7575 0,#ff7373 8q,#f88 10q,#ffa7a7 11q,#fefeff 12q,#9797ff 13q,#6b6bff 14q,#5252ff 15q,#3939ff 17q,#33f 19q,#3a3aff 23q,#5a5aff 28q,#a2a2ff 36q,#e3e3ff 40q,#fdfdff 42q,#fff4f4 43q,#ffa6a6 49q,#f77 56q,#ff6060 65q,#ff8d8d 81q,#ff9090 93q,#ffa3a3 99q,#ffe2e2 106q,#fff7f7 109q,#fffdfd 110q,#fdfdff 111q,#ebebff 116q,#c3c3ff 134q,#bbf 141q,#c1c1ff 147q,#dfdfff 161q,#e9e9ff 175q,#f9f9ff 187q,#fff 193q,#fffdfd 205q,#fff 263q"></i><i style="--g:#f77 0,#ff7474 7q,#ff7f7f 9q,#ff8f8f 10q,#fbb 11q,#e7e7ff 12q,#8c8cff 13q,#66f 14q,#3f3fff 16q,#33f 18q,#3131ff 21q,#6363ff 30q,#9e9eff 37q,#d5d5ff 41q,#fafaff 44q,#fff8f8 45q,#ffdfdf 47q,#ffa4a4 51q,#f77 57q,#ff6161 65q,#f66 70q,#ff8a8a 82q,#ff8686 94q,#ff9696 101q,#ffa5a5 104q,#ffd3d3 110q,#ffe7e7 114q,#fff4f4 118q,#fff 122q,#d2d2ff 138q,#c7c7ff 146q,#dcdcff 162q,#e4e4ff 178q,#f7f7ff 194q,#fdfdff 204q,#fff 219q,#fff 263q"></i><i style="--g:#f77 0,#ff7373 7q,#ff7f7f 9q,#ff8f8f 10q,#ffbcbc 11q,#e6e6ff 12q,#8b8bff 13q,#66f 14q,#4e4eff 15q,#33f 17q,#33f 22q,#66f 31q,#a0a0ff 39q,#fff 47q,#ffe6e6 49q,#ffa7a7 53q,#ff7d7d 58q,#f66 66q,#ff8d8d 83q,#ff8383 96q,#ff9090 103q,#ffc7c7 115q,#ffd5d5 119q,#fff0f0 129q,#fffdfd 133q,#fdfdff 134q,#e2e2ff 142q,#d9d9ff 146q,#d6d6ff 151q,#e0e0ff 164q,#e3e3ff 180q,#f5f5ff 198q,#fafaff 210q,#fefeff 263q"></i><i style="--g:#ff7474 0,#ff7070 7q,#ff7a7a 9q,#f88 10q,#faa 11q,#fbfbff 12q,#9595ff 13q,#6a6aff 14q,#5151ff 15q,#3737ff 17q,#2e2eff 20q,#55f 29q,#aaf 42q,#f7f7ff 49q,#fffbfb 50q,#ffdede 52q,#ff9e9e 56q,#ff7a7a 61q,#ff6c6c 67q,#ff9494 84q,#ff8585 98q,#ff9393 107q,#ffb9b9 119q,#ffe0e0 134q,#fffefe 142q,#fdfdff 143q,#f1f1ff 147q,#e8e8ff 152q,#e8e8ff 167q,#e4e4ff 179q,#e7e7ff 186q,#f5f5ff 203q,#f9f9ff 215q,#fdfdff 263q"></i><i style="--g:#ff7070 0,#ff6a6a 7q,#ff7d7d 10q,#ff9494 11q,#fdd 12q,#b2b2ff 13q,#7575ff 14q,#44f 16q,#3030ff 20q,#4a4aff 27q,#acacff 44q,#e7e7ff 50q,#fff 52q,#ffa2a2 58q,#ff8585 62q,#f77 68q,#ff7e7e 73q,#ffa3a3 84q,#ffa1a1 88q,#ff8d8d 97q,#ff8c8c 103q,#ffc2c2 133q,#fff5f5 148q,#fff 152q,#f8f8ff 157q,#f5f5ff 167q,#eaeaff 184q,#f6f6ff 207q,#f9f9ff 219q,#fdfdff 263q"></i><i style="--g:#ff6b6b 0,#f66 8q,#ff7272 10q,#ff8383 11q,#ffadad 12q,#e6e6ff 13q,#88f 14q,#6363ff 15q,#4141ff 17q,#3737ff 22q,#a4a4ff 44q,#bcbcff 47q,#e1e1ff 51q,#f7f7ff 53q,#fffbfb 54q,#ffa5a5 60q,#ff8d8d 64q,#ff8585 69q,#ff9292 75q,#ffbdbd 83q,#ffc5c5 86q,#ffc2c2 89q,#ffa3a3 96q,#f99 102q,#ffb2b2 133q,#ffc1c1 140q,#ffe8e8 152q,#fff2f2 157q,#fff 172q,#fff 173q,#f5f5ff 182q,#f1f1ff 190q,#fafaff 223q,#fdfdff 263q"></i><i style="--g:#f66 0,#ff6060 8q,#f77 11q,#ff9090 12q,#ffe3e3 13q,#a2a2ff 14q,#7070ff 15q,#55f 16q,#3f3fff 18q,#3939ff 20q,#4a4aff 26q,#a3a3ff 43q,#c6c6ff 48q,#e7e7ff 52q,#fafaff 54q,#fff9f9 55q,#faa 62q,#ff9d9d 64q,#ff9494 68q,#ffa4a4 75q,#ffcfcf 81q,#ffdfdf 84q,#ffe5e5 86q,#ffe8e8 88q,#ffe1e1 92q,#ffbfbf 100q,#ffb4b4 104q,#ffb1b1 136q,#ffbcbc 143q,#fdd 155q,#ffe6e6 160q,#fff2f2 173q,#fff 183q,#f9f9ff 190q,#f8f8ff 197q,#fcfcff 227q,#fefeff 263q"></i><i style="--g:#f66 0,#ff5e5e 9q,#ff6e6e 11q,#ff8282 12q,#ffb8b8 13q,#d1d1ff 14q,#7f7fff 15q,#6161ff 16q,#4040ff 19q,#44f 24q,#a4a4ff 41q,#fafaff 53q,#fffcfc 54q,#ffbebe 61q,#ffa5a5 65q,#ffa2a2 68q,#ffb0b0 73q,#fff1f1 83q,#fff 86q,#fafaff 88q,#f7f7ff 90q,#f9f9ff 93q,#fefeff 95q,#fffdfd 96q,#ffdcdc 106q,#ffb8b8 139q,#ffbebe 146q,#fdd 162q,#ffe9e9 175q,#fff8f8 187q,#fff 194q,#fdfdff 208q,#fff 263q"></i><i style="--g:#ff6464 0,#ff5d5d 9q,#ff6a6a 11q,#ff7c7c 12q,#ffa2a2 13q,#eef 14q,#8c8cff 15q,#6969ff 16q,#55f 17q,#44f 19q,#44f 22q,#66f 29q,#a0a0ff 38q,#d5d5ff 44q,#fefeff 50q,#fff9f9 51q,#ffc0c0 59q,#ffafaf 62q,#ffa7a7 66q,#ffacac 69q,#ffbfbf 73q,#fffdfd 83q,#fcfcff 84q,#eaeaff 88q,#e2e2ff 91q,#dedeff 94q,#e4e4ff 99q,#fbfbff 108q,#fff 110q,#fffafa 112q,#ffe8e8 124q,#ffcbcb 138q,#ffc4c4 145q,#ffd9d9 162q,#ffe3e3 177q,#fff6f6 194q,#fffcfc 204q,#fff 224q,#fff 263q"></i><i style="--g:#f66 0,#ff5e5e 9q,#ff6b6b 11q,#ff7d7d 12q,#ffa2a2 13q,#f3f3ff 14q,#9090ff 15q,#6c6cff 16q,#5959ff 17q,#44f 21q,#6464ff 28q,#9f9fff 36q,#ceceff 40q,#e2e2ff 42q,#fbfbff 45q,#fffcfc 46q,#ffb3b3 56q,#ffa3a3 59q,#ff9c9c 64q,#faa 70q,#fff6f6 82q,#fffbfb 83q,#fefeff 84q,#ddf 91q,#d0d0ff 95q,#cbcbff 99q,#d1d1ff 105q,#fff 129q,#ffe0e0 140q,#ffd7d7 145q,#ffd3d3 150q,#fdd 164q,#ffe2e2 179q,#fff4f4 199q,#fffafa 211q,#fffcfc 231q,#fffefe 263q"></i><i style="--g:#ff6868 0,#ff6363 9q,#ff7272 11q,#ff8585 12q,#ffb7b7 13q,#dfdfff 14q,#8a8aff 15q,#6a6aff 16q,#4949ff 19q,#4d4dff 23q,#77f 30q,#a2a2ff 35q,#dbdbff 39q,#fcfcff 42q,#fff8f8 43q,#faa 52q,#ff9797 56q,#ff8c8c 62q,#ff9191 67q,#ffa5a5 72q,#ffcbcb 77q,#ffe2e2 81q,#fff 87q,#d0d0ff 96q,#c2c2ff 100q,#bdbdff 105q,#e1e1ff 129q,#fff 140q,#fff8f8 142q,#ffecec 147q,#ffe6e6 151q,#ffe4e4 156q,#ffe5e5 182q,#fff4f4 204q,#fff9f9 219q,#fffdfd 263q"></i><i style="--g:#ff6d6d 0,#ff6868 8q,#ff7e7e 11q,#f99 12q,#ffe3e3 13q,#b5b5ff 14q,#7d7dff 15q,#55f 17q,#44f 20q,#6a6aff 28q,#9e9eff 34q,#ddf 38q,#f7f7ff 40q,#fffbfb 41q,#ffa8a8 49q,#ff8a8a 55q,#ff7d7d 62q,#ff8686 68q,#ff9e9e 74q,#ffcaca 81q,#fee 89q,#fff 92q,#ceceff 100q,#bfbfff 104q,#b8b8ff 110q,#c4c4ff 125q,#d1d1ff 133q,#f9f9ff 147q,#fff 150q,#fff9f9 153q,#fff5f5 157q,#ffeaea 183q,#fff9f9 220q,#fffdfd 263q"></i><i style="--g:#ff7373 0,#ff7171 8q,#ff7f7f 10q,#ff9191 11q,#ffc3c3 12q,#e4e4ff 13q,#9090ff 14q,#6e6eff 15q,#5a5aff 16q,#4747ff 18q,#4b4bff 23q,#77f 30q,#9f9fff 34q,#e1e1ff 38q,#fdfdff 40q,#fff4f4 41q,#ffa4a4 48q,#ff8080 55q,#ff7272 63q,#ff8282 71q,#ffd4d4 91q,#fffcfc 97q,#fafaff 98q,#e5e5ff 101q,#cfcfff 105q,#bfbfff 111q,#bbf 120q,#bebeff 130q,#c7c7ff 137q,#eef 152q,#f6f6ff 157q,#fff 167q,#fff 169q,#fff4f4 182q,#fff1f1 189q,#fffafa 224q,#fffdfd 263q"></i><i style="--g:#ff7a7a 0,#ff7979 7q,#ff8383 9q,#ff9191 10q,#ffb2b2 11q,#fff9f9 12q,#aaf 13q,#7b7bff 14q,#6262ff 15q,#4848ff 17q,#3f3fff 20q,#6d6dff 29q,#a6a6ff 35q,#dadaff 38q,#f7f7ff 40q,#fffafa 41q,#ffa3a3 48q,#ff7c7c 55q,#ff6b6b 64q,#ff7575 70q,#f99 81q,#ffa5a5 89q,#ffb6b6 93q,#ffd1d1 97q,#fff9f9 102q,#fdfdff 103q,#eaeaff 106q,#d8d8ff 110q,#c9c9ff 117q,#bebeff 133q,#c6c6ff 142q,#e1e1ff 154q,#eaeaff 160q,#f8f8ff 175q,#fff 181q,#fffafa 189q,#fff8f8 196q,#fffdfd 263q"></i><i style="--g:#ff8080 0,#ff8282 7q,#ff9191 9q,#ffa5a5 10q,#ffdcdc 11q,#d8d8ff 12q,#8f8fff 13q,#6e6eff 14q,#4b4bff 16q,#3d3dff 18q,#4a4aff 24q,#7f7fff 32q,#a7a7ff 36q,#d8d8ff 39q,#f4f4ff 41q,#fffdfd 42q,#ffa3a3 49q,#ff7979 56q,#f66 64q,#ff6f6f 70q,#ff9090 82q,#f99 93q,#ffa7a7 97q,#ffecec 106q,#fff 109q,#f2f2ff 112q,#e6e6ff 116q,#cfcfff 128q,#c4c4ff 139q,#c9c9ff 146q,#e2e2ff 162q,#fff 193q,#fffdfd 208q,#fff 263q"></i><i style="--g:#ff8484 0,#ff8585 6q,#ff8e8e 8q,#ff9b9b 9q,#ffbcbc 10q,#fff6f6 11q,#bbf 12q,#8484ff 13q,#55f 15q,#3939ff 19q,#44f 23q,#6464ff 29q,#a2a2ff 37q,#f6f6ff 43q,#fffbfb 44q,#ffa0a0 51q,#f77 58q,#ff6868 66q,#f88 81q,#ff8e8e 94q,#ffa0a0 101q,#ffd7d7 109q,#ffebeb 113q,#fffafa 117q,#fff 119q,#f9f9ff 121q,#ddf 133q,#d2d2ff 139q,#ceceff 145q,#f8f8ff 194q,#fcfcff 204q,#fff 217q,#fff 263q"></i><i style="--g:#ff8585 0,#ff8686 6q,#ff9090 8q,#ff9e9e 9q,#ffc1c1 10q,#fffbfb 11q,#b6b6ff 12q,#8181ff 13q,#5353ff 15q,#3838ff 19q,#4040ff 23q,#66f 30q,#a6a6ff 39q,#fff 46q,#ffe7e7 48q,#ffa1a1 53q,#ff7a7a 59q,#ff6b6b 66q,#ff8a8a 82q,#f88 96q,#ff9797 103q,#ffd1d1 115q,#ffe2e2 120q,#fffefe 130q,#fefeff 131q,#e5e5ff 141q,#ddf 146q,#dbdbff 151q,#e6e6ff 178q,#f5f5ff 198q,#fafaff 210q,#fff 263q"></i><i style="--g:#ff8383 0,#ff8383 6q,#ff9797 9q,#ffb4b4 10q,#ffeded 11q,#c6c6ff 12q,#88f 13q,#55f 15q,#3838ff 19q,#6363ff 30q,#a8a8ff 41q,#f8f8ff 48q,#fffafa 49q,#ffe0e0 51q,#ffa6a6 55q,#ff8383 60q,#ff7373 68q,#ff9090 83q,#ff8a8a 98q,#f99 107q,#ffc9c9 121q,#fff 141q,#f5f5ff 145q,#ececff 151q,#e9e9ff 156q,#e8e8ff 176q,#eaeaff 185q,#f6f6ff 205q,#fafaff 216q,#fdfdff 263q"></i><i style="--g:#ff7f7f 0,#ff7f7f 7q,#ff8c8c 9q,#ff9e9e 10q,#ffcece 11q,#e8e8ff 12q,#99f 13q,#7373ff 14q,#5c5cff 15q,#44f 17q,#3e3eff 22q,#8b8bff 38q,#aaf 43q,#e7e7ff 49q,#fff 51q,#ffa2a2 58q,#f88 62q,#ff7d7d 68q,#ff9d9d 84q,#ff8f8f 100q,#ffa4a4 114q,#fff 151q,#f7f7ff 159q,#eeeeff 183q,#fafaff 220q,#fdfdff 263q"></i><i style="--g:#ff7979 0,#f77 7q,#ff8d8d 10q,#ffa5a5 11q,#ffe9e9 12q,#bfbfff 13q,#8383ff 14q,#55f 16q,#3f3fff 20q,#5959ff 28q,#a8a8ff 44q,#e9e9ff 51q,#fff 53q,#faa 60q,#ff9393 64q,#ff8b8b 69q,#ff9595 75q,#ffb7b7 85q,#ffb5b5 89q,#ff9b9b 100q,#ffa4a4 114q,#ffc6c6 136q,#ffeaea 151q,#fff3f3 156q,#fff 168q,#fff 170q,#f6f6ff 182q,#f4f4ff 190q,#fbfbff 225q,#fdfdff 263q"></i><i style="--g:#ff7575 0,#ff7373 8q,#ff7f7f 10q,#ff9090 11q,#ffbaba 12q,#f4f4ff 13q,#9b9bff 14q,#77f 15q,#6060ff 16q,#4a4aff 18q,#44f 21q,#aaf 44q,#e0e0ff 51q,#fbfbff 54q,#fff9f9 55q,#ffb5b5 62q,#ffa2a2 65q,#ff9c9c 69q,#ffa4a4 74q,#ffd0d0 83q,#ffd8d8 87q,#ffd5d5 91q,#ffb9b9 100q,#ffb0b0 105q,#fbb 134q,#ffc5c5 141q,#ffe1e1 154q,#ffeaea 160q,#fff 182q,#fff 184q,#fbfbff 190q,#f9f9ff 198q,#fefeff 263q"></i><i style="--g:#ff7272 0,#ff6e6e 8q,#ff8383 11q,#f99 12q,#fdd 13q,#c7c7ff 14q,#88f 15q,#6c6cff 16q,#4d4dff 19q,#55f 25q,#a6a6ff 42q,#fcfcff 54q,#fffbfb 55q,#fcc 61q,#fbb 64q,#ffb1b1 68q,#ffb4b4 71q,#ffbebe 74q,#ffe5e5 82q,#fff0f0 85q,#fff6f6 88q,#fff7f7 90q,#fff3f3 94q,#ffd2d2 107q,#ffc2c2 137q,#ffc8c8 145q,#ffe4e4 164q,#fff 195q,#fdfdff 212q,#fff 263q"></i><i style="--g:#ff7070 0,#ff6e6e 9q,#ff7c7c 11q,#ff8f8f 12q,#ffc0c0 13q,#eaeaff 14q,#99f 15q,#77f 16q,#66f 17q,#55f 19q,#55f 23q,#a3a3ff 39q,#d1d1ff 45q,#fefeff 52q,#fffafa 53q,#ffcfcf 60q,#ffc3c3 63q,#ffbcbc 67q,#ffcaca 73q,#fffdfd 84q,#fdfdff 85q,#f2f2ff 89q,#eef 94q,#f2f2ff 98q,#fff 104q,#ffefef 112q,#ffd3d3 134q,#ffcdcd 143q,#fff7f7 193q,#fffcfc 205q,#fff 222q,#fff 263q"></i><i style="--g:#ff7171 0,#ff6e6e 9q,#ff7c7c 11q,#ff8e8e 12q,#ffb9b9 13q,#f6f6ff 14q,#a1a1ff 15q,#7d7dff 16q,#6a6aff 17q,#5959ff 19q,#55f 22q,#7474ff 29q,#9f9fff 36q,#ceceff 41q,#e5e5ff 44q,#fff 48q,#ffcece 56q,#ffb9b9 61q,#ffb5b5 65q,#ffb9b9 68q,#ffc8c8 72q,#fffcfc 83q,#fefeff 84q,#e8e8ff 90q,#dedeff 94q,#dbdbff 98q,#e0e0ff 104q,#fff 122q,#fff 123q,#ffe4e4 138q,#fdd 143q,#ffdada 149q,#ffe6e6 178q,#fff6f6 200q,#fffafa 211q,#fff 263q"></i><i style="--g:#ff7575 0,#ff7373 9q,#ff8282 11q,#ff9696 12q,#ffc8c8 13q,#eaeaff 14q,#9d9dff 15q,#7d7dff 16q,#6b6bff 17q,#5b5bff 19q,#5d5dff 23q,#8080ff 30q,#a5a5ff 35q,#c9c9ff 38q,#e7e7ff 41q,#fff 44q,#ffefef 46q,#ffc0c0 53q,#ffa6a6 58q,#ff9f9f 63q,#ffacac 69q,#ffeaea 81q,#fff 86q,#dfdfff 94q,#d2d2ff 99q,#ceceff 104q,#d4d4ff 111q,#e8e8ff 125q,#fff 137q,#fff8f8 140q,#ffeded 146q,#ffe9e9 151q,#ffe7e7 157q,#ffe9e9 181q,#fff5f5 204q,#fffafa 219q,#fffdfd 263q"></i><i style="--g:#ff7a7a 0,#f77 8q,#ff9090 11q,#ffacac 12q,#ffeaea 13q,#cacaff 14q,#9090ff 15q,#66f 17q,#5858ff 20q,#7272ff 27q,#a6a6ff 34q,#dbdbff 38q,#fafaff 41q,#fffafa 42q,#ffa9a9 52q,#f99 56q,#ff8f8f 62q,#ff9595 67q,#ffa5a5 72q,#ffd8d8 81q,#fffdfd 90q,#fcfcff 91q,#d9d9ff 99q,#ccf 104q,#c7c7ff 109q,#ceceff 120q,#ddf 131q,#fff 148q,#fff9f9 152q,#fff5f5 157q,#fee 182q,#fff9f9 221q,#fffdfd 263q"></i><i style="--g:#ff8282 0,#ff8484 8q,#ff9393 10q,#ffa9a9 11q,#ffdada 12q,#e5e5ff 13q,#a0a0ff 14q,#7f7fff 15q,#6c6cff 16q,#5a5aff 18q,#5959ff 22q,#77f 28q,#a0a0ff 33q,#e3e3ff 38q,#fafaff 40q,#fff9f9 41q,#ffa5a5 50q,#ff8c8c 56q,#ff8383 62q,#ff8c8c 69q,#ffa5a5 76q,#ffbfbf 81q,#ffeaea 92q,#fff 96q,#eaeaff 100q,#d9d9ff 104q,#ccf 109q,#c7c7ff 117q,#d3d3ff 134q,#f5f5ff 153q,#fff 163q,#fff 165q,#fff6f6 180q,#fff4f4 189q,#fffafa 226q,#fffdfd 263q"></i><i style="--g:#ff8a8a 0,#ff8d8d 7q,#ff9b9b 9q,#ffafaf 10q,#ffd6d6 11q,#f3f3ff 12q,#b3b3ff 13q,#88f 14q,#6262ff 16q,#5252ff 20q,#7070ff 27q,#9e9eff 33q,#e2e2ff 38q,#f9f9ff 40q,#fff9f9 41q,#ffa7a7 49q,#f88 55q,#ff7b7b 63q,#ff8a8a 72q,#ffcaca 92q,#fffcfc 101q,#fdfdff 102q,#eef 105q,#dcdcff 110q,#d0d0ff 117q,#cbcbff 129q,#d2d2ff 140q,#e8e8ff 154q,#f0f0ff 161q,#fff 180q,#fff 182q,#fffafa 189q,#fff9f9 197q,#fffdfd 263q"></i><i style="--g:#ff9393 0,#f99 7q,#ffa2a2 8q,#ffb4b4 9q,#ffd3d3 10q,#fffdfd 11q,#9494ff 13q,#66f 15q,#5353ff 17q,#4d4dff 19q,#6c6cff 27q,#a0a0ff 34q,#e3e3ff 39q,#fbfbff 41q,#fff8f8 42q,#ffa3a3 50q,#ff8585 56q,#f77 64q,#ffa5a5 90q,#ffb7b7 95q,#fff0f0 105q,#fff 108q,#f3f3ff 111q,#e5e5ff 116q,#d7d7ff 126q,#d1d1ff 137q,#d5d5ff 145q,#eaeaff 164q,#fff 193q,#fffdfd 211q,#fff 263q"></i><i style="--g:#f99 0,#ff9f9f 6q,#ffa5a5 7q,#ffb3b3 8q,#ffcaca 9q,#ffebeb 10q,#e7e7ff 11q,#aeaeff 12q,#88f 13q,#7171ff 14q,#55f 16q,#4949ff 19q,#5050ff 22q,#7a7aff 30q,#9f9fff 35q,#ddf 40q,#fff 43q,#ffa6a6 51q,#ff8585 57q,#f77 65q,#ff9494 82q,#ffa4a4 97q,#ffeded 111q,#fffefe 116q,#fdfdff 117q,#e7e7ff 128q,#ddf 136q,#d9d9ff 144q,#fafaff 195q,#fff 213q,#fff 263q"></i><i style="--g:#ff9c9c 0,#ff9f9f 5q,#ffabab 7q,#fbb 8q,#ffd2d2 9q,#fff3f3 10q,#dedeff 11q,#a4a4ff 12q,#6e6eff 14q,#55f 16q,#4848ff 19q,#6a6aff 28q,#a4a4ff 37q,#fefeff 45q,#fff6f6 46q,#ffa7a7 53q,#ff8a8a 58q,#ff7a7a 66q,#ff9292 82q,#ff9797 95q,#ffa4a4 102q,#ffd4d4 112q,#ffe8e8 118q,#fff9f9 125q,#fff 128q,#ececff 138q,#e5e5ff 144q,#e3e3ff 151q,#ebebff 176q,#f7f7ff 198q,#fbfbff 210q,#fff 248q,#fff 263q"></i><i style="--g:#ff9a9a 0,#ff9d9d 5q,#ffa6a6 7q,#ffb5b5 8q,#fcc 9q,#ffebeb 10q,#e7e7ff 11q,#aeaeff 12q,#88f 13q,#7171ff 14q,#55f 16q,#4848ff 19q,#4d4dff 22q,#8282ff 33q,#a8a8ff 39q,#f9f9ff 47q,#fffbfb 48q,#ffa3a3 56q,#ff8a8a 61q,#ff8080 68q,#ff9797 83q,#ff9696 97q,#ffa3a3 105q,#ffcbcb 116q,#fdd 123q,#fff 139q,#f8f8ff 143q,#f1f1ff 148q,#ededff 161q,#eef 181q,#f7f7ff 204q,#fbfbff 219q,#fefeff 263q"></i><i style="--g:#ff9696 0,#ff9797 5q,#ffa5a5 8q,#ffb9b9 9q,#ffd7d7 10q,#fefeff 11q,#9494ff 13q,#7979ff 14q,#5a5aff 16q,#4b4bff 20q,#66f 28q,#a4a4ff 40q,#fefeff 50q,#fff6f6 51q,#ffa4a4 59q,#ff9292 63q,#ff8b8b 68q,#ffa2a2 84q,#ff9b9b 99q,#ffa5a5 108q,#ffc8c8 121q,#fff0f0 141q,#fff 150q,#f7f7ff 160q,#f2f2ff 182q,#fbfbff 222q,#fdfdff 263q"></i><i style="--g:#ff9090 0,#ff9191 6q,#ffa2a2 9q,#ffbaba 10q,#ffdfdf 11q,#ededff 12q,#afafff 13q,#88f 14q,#7171ff 15q,#5959ff 17q,#5050ff 21q,#a4a4ff 41q,#fbfbff 52q,#fffafa 53q,#ffb1b1 61q,#ffa0a0 64q,#f99 69q,#ff9e9e 74q,#ffb4b4 82q,#ffb9b9 86q,#ffa5a5 100q,#ffa8a8 107q,#fff3f3 153q,#fff 166q,#f8f8ff 180q,#f6f6ff 190q,#fcfcff 227q,#fefeff 263q"></i><i style="--g:#ff8b8b 0,#ff8b8b 7q,#ff9f9f 10q,#ffbcbc 11q,#ffe9e9 12q,#dbdbff 13q,#9e9eff 14q,#8080ff 15q,#5b5bff 18q,#5a5aff 23q,#aaf 42q,#fdfdff 54q,#fff9f9 55q,#fcc 61q,#ffb6b6 65q,#ffadad 69q,#ffb2b2 73q,#ffcdcd 82q,#ffd3d3 86q,#ffd1d1 91q,#fbb 103q,#ffbdbd 113q,#ffd0d0 137q,#ffe9e9 154q,#fff0f0 161q,#fff 181q,#fbfbff 199q,#fefeff 263q"></i><i style="--g:#f88 0,#ff8686 8q,#ff9292 10q,#ffa0a0 11q,#ffc6c6 12q,#fffafa 13q,#c6c6ff 14q,#9393ff 15q,#6d6dff 17q,#5d5dff 21q,#6d6dff 27q,#a4a4ff 40q,#fff 55q,#ffdbdb 61q,#ffcbcb 65q,#ffc5c5 69q,#fcc 74q,#ffe8e8 84q,#fee 89q,#ffebeb 93q,#ffd3d3 108q,#ffcfcf 133q,#ffd5d5 143q,#fee 168q,#fff 195q,#fefeff 215q,#fff 263q"></i><i style="--g:#ff8585 0,#ff8282 8q,#ff9696 11q,#ffaeae 12q,#ffdede 13q,#e7e7ff 14q,#a8a8ff 15q,#88f 16q,#77f 17q,#66f 19q,#66f 23q,#a6a6ff 38q,#d7d7ff 46q,#fff 54q,#ffe2e2 60q,#ffd6d6 64q,#ffd2d2 68q,#ffdbdb 74q,#fff6f6 83q,#fff 87q,#fbfbff 92q,#fff 98q,#ffebeb 111q,#fdd 129q,#ffd9d9 140q,#ffdbdb 148q,#fff8f8 191q,#fffcfc 204q,#fff 218q,#fff 263q"></i><i style="--g:#ff8686 0,#ff8585 9q,#ff9494 11q,#ffa6a6 12q,#ffd2d2 13q,#f7f7ff 14q,#bdbdff 15q,#9393ff 16q,#7575ff 18q,#6c6cff 22q,#a3a3ff 35q,#c9c9ff 40q,#e1e1ff 44q,#fff 50q,#ffdede 58q,#ffd4d4 62q,#ffd1d1 66q,#fdd 73q,#fff 84q,#f1f1ff 90q,#ebebff 97q,#efefff 103q,#fff 115q,#fff 116q,#ffeaea 135q,#ffe2e2 148q,#fffbfb 210q,#fff 263q"></i><i style="--g:#f88 0,#f88 8q,#f99 11q,#ffafaf 12q,#ffd9d9 13q,#f3f3ff 14q,#bebeff 15q,#9696ff 16q,#7979ff 18q,#7171ff 22q,#8383ff 27q,#a4a4ff 33q,#ddf 40q,#fcfcff 45q,#fffdfd 46q,#ffd8d8 54q,#ffcaca 58q,#ffc3c3 63q,#ffc6c6 67q,#ffd0d0 71q,#fff 85q,#e8e8ff 94q,#e2e2ff 98q,#e0e0ff 103q,#ededff 118q,#fff 132q,#fff 133q,#fff1f1 145q,#ffecec 157q,#ffefef 180q,#fff8f8 204q,#fffbfb 219q,#fffefe 263q"></i><i style="--g:#ff8f8f 0,#ff8f8f 8q,#f99 10q,#ffa8a8 11q,#ffc7c7 12q,#fff0f0 13q,#dfdfff 14q,#acacff 15q,#9090ff 16q,#8181ff 17q,#7171ff 20q,#7e7eff 25q,#a0a0ff 31q,#e0e0ff 38q,#fcfcff 42q,#fffbfb 43q,#ffcaca 52q,#ffb5b5 57q,#ffadad 62q,#ffbaba 69q,#ffe6e6 81q,#fff 89q,#e5e5ff 98q,#dcdcff 103q,#d9d9ff 108q,#ddf 117q,#e8e8ff 128q,#fff 145q,#fff6f6 157q,#fff2f2 179q,#fffbfb 223q,#fffdfd 263q"></i><i style="--g:#ff9797 0,#f99 7q,#ffa2a2 9q,#ffb1b1 10q,#ffc9c9 11q,#ffe9e9 12q,#ececff 13q,#bebeff 14q,#99f 15q,#8585ff 16q,#7373ff 18q,#7272ff 22q,#a4a4ff 31q,#d8d8ff 36q,#f2f2ff 39q,#f9f9ff 40q,#fffdfd 41q,#ffbdbd 51q,#ffa4a4 56q,#ff9c9c 62q,#ffa5a5 69q,#ffd5d5 81q,#fffdfd 94q,#fdfdff 95q,#e4e4ff 103q,#dbdbff 108q,#d8d8ff 115q,#e1e1ff 132q,#f8f8ff 151q,#fff 160q,#fff 163q,#fff9f9 177q,#fff7f7 188q,#fffcfc 228q,#fffdfd 263q"></i><i style="--g:#ffa2a2 0,#ffa4a4 6q,#ffb2b2 8q,#ffbfbf 9q,#ffd1d1 10q,#ffecec 11q,#f0f0ff 12q,#9d9dff 14q,#88f 15q,#7171ff 17q,#6d6dff 21q,#8282ff 26q,#a4a4ff 31q,#e3e3ff 37q,#fcfcff 40q,#fffafa 41q,#ffa7a7 53q,#f99 58q,#ff9393 63q,#ffa3a3 73q,#ffc2c2 81q,#ffe0e0 92q,#fffefe 100q,#fdfdff 101q,#efefff 105q,#e6e6ff 109q,#dedeff 115q,#dbdbff 124q,#dfdfff 136q,#f4f4ff 159q,#fff 177q,#fffbfb 198q,#fffefe 263q"></i><i style="--g:#ffb0b0 0,#ffb5b5 5q,#ffc0c0 7q,#ffcaca 8q,#ffd9d9 9q,#fee 10q,#f3f3ff 11q,#cfcfff 12q,#a4a4ff 13q,#8c8cff 14q,#7171ff 16q,#66f 20q,#7979ff 25q,#9f9fff 31q,#e7e7ff 38q,#fff 41q,#fff6f6 42q,#ffa5a5 53q,#ff9494 58q,#ff8e8e 64q,#f99 73q,#ffd0d0 94q,#fff9f9 105q,#fff 107q,#f6f6ff 110q,#ebebff 115q,#e3e3ff 123q,#dfdfff 134q,#e2e2ff 143q,#f1f1ff 164q,#fff 191q,#fffdfd 213q,#fff 263q"></i><i style="--g:#fbb 0,#ffbfbf 4q,#ffd0d0 7q,#ffdbdb 8q,#ffecec 9q,#fbfbff 10q,#ddf 11q,#9696ff 13q,#7474ff 15q,#6161ff 19q,#77f 25q,#a0a0ff 32q,#dcdcff 38q,#fdfdff 42q,#fff9f9 43q,#ffa5a5 54q,#ff9494 59q,#ff8d8d 65q,#ff9494 72q,#ffc1c1 96q,#fff3f3 110q,#fff 115q,#f8f8ff 118q,#efefff 125q,#e7e7ff 133q,#e5e5ff 142q,#fafaff 192q,#fff 209q,#fff 263q"></i><i style="--g:#ffc2c2 0,#ffc6c6 4q,#ffd7d7 7q,#ffe3e3 8q,#fff4f4 9q,#f2f2ff 10q,#d3d3ff 11q,#acacff 12q,#9191ff 13q,#6868ff 16q,#6060ff 20q,#7d7dff 27q,#a7a7ff 34q,#dedeff 40q,#fdfdff 44q,#fff9f9 45q,#ffa5a5 56q,#ff9595 61q,#ff8f8f 66q,#ffb5b5 97q,#fee 116q,#fff 125q,#f1f1ff 137q,#ebebff 150q,#fcfcff 210q,#fff 235q,#fff 263q"></i><i style="--g:#ffc1c1 0,#ffc5c5 4q,#ffd6d6 7q,#ffe2e2 8q,#fff2f2 9q,#f5f5ff 10q,#9393ff 13q,#6969ff 16q,#5f5fff 19q,#77f 26q,#a5a5ff 35q,#d7d7ff 41q,#fbfbff 46q,#fffcfc 47q,#ffa5a5 59q,#ff9595 68q,#faa 84q,#ffb4b4 100q,#ffdbdb 115q,#ffe8e8 121q,#fff 136q,#f5f5ff 148q,#f2f2ff 163q,#f3f3ff 180q,#fcfcff 216q,#fff 263q"></i><i style="--g:#ffbcbc 0,#ffbfbf 4q,#ffcdcd 7q,#ffe7e7 9q,#fffcfc 10q,#e6e6ff 11q,#9c9cff 13q,#77f 15q,#6262ff 19q,#7171ff 25q,#a4a4ff 36q,#fefeff 49q,#fff9f9 50q,#fbb 59q,#ffa4a4 64q,#ff9f9f 69q,#ffb5b5 84q,#ffb2b2 97q,#ffb8b8 103q,#ffd7d7 119q,#ffe7e7 129q,#fff 148q,#f9f9ff 160q,#f6f6ff 180q,#fcfcff 223q,#fefeff 263q"></i><i style="--g:#ffb4b4 0,#ffb7b7 5q,#ffc8c8 8q,#ffd5d5 9q,#ffe8e8 10q,#fdfdff 11q,#dbdbff 12q,#b3b3ff 13q,#9494ff 14q,#77f 16q,#66f 20q,#77f 26q,#a7a7ff 37q,#fbfbff 51q,#fffdfd 52q,#fcc 60q,#ffb8b8 65q,#ffb1b1 70q,#ffc6c6 85q,#ffbebe 99q,#ffc0c0 106q,#fff5f5 149q,#fff 163q,#f9f9ff 189q,#fefeff 263q"></i><i style="--g:#faa 0,#ffadad 6q,#ffb7b7 8q,#ffc1c1 9q,#ffd1d1 10q,#ffe7e7 11q,#f9f9ff 12q,#d4d4ff 13q,#aaf 14q,#9191ff 15q,#8181ff 16q,#7171ff 18q,#6e6eff 21q,#a7a7ff 37q,#fff 54q,#ffdbdb 61q,#ffcdcd 65q,#ffc6c6 70q,#ffd9d9 86q,#fcc 102q,#ffcece 112q,#fff5f5 159q,#fff 179q,#fcfcff 201q,#fff 263q"></i><i style="--g:#ffa4a4 0,#ffa4a4 7q,#ffb0b0 9q,#ffbdbd 10q,#ffd0d0 11q,#ffeaea 12q,#f3f3ff 13q,#a4a4ff 15q,#8383ff 17q,#77f 21q,#a3a3ff 35q,#ccf 43q,#fefeff 55q,#fffcfc 56q,#ffe5e5 62q,#ffdbdb 66q,#ffd8d8 70q,#ffebeb 87q,#ffeaea 92q,#ffdcdc 108q,#fdd 130q,#fff5f5 169q,#fff 194q,#fff 263q"></i><i style="--g:#ffa1a1 0,#ffa0a0 7q,#ffa5a5 9q,#ffafaf 10q,#ffbfbf 11q,#ffd6d6 12q,#fff3f3 13q,#e7e7ff 14q,#a0a0ff 16q,#88f 18q,#7e7eff 21q,#a3a3ff 33q,#c3c3ff 39q,#d8d8ff 44q,#fff 55q,#ffebeb 62q,#ffe6e6 65q,#ffe3e3 69q,#ffe7e7 74q,#fff9f9 86q,#fffbfb 91q,#fff9f9 96q,#ffebeb 112q,#ffe5e5 137q,#fffafa 191q,#fff 213q,#fff 263q"></i><i style="--g:#ffa1a1 0,#ff9f9f 7q,#faa 10q,#fcc 12q,#ffe7e7 13q,#f7f7ff 14q,#b2b2ff 16q,#9c9cff 17q,#8b8bff 19q,#88f 22q,#a6a6ff 31q,#ccf 38q,#e1e1ff 43q,#fff 52q,#ffecec 60q,#ffe6e6 67q,#ffecec 74q,#fff 85q,#f9f9ff 90q,#f7f7ff 95q,#f8f8ff 100q,#fff 108q,#fff 110q,#fff2f2 127q,#ffecec 146q,#fffcfc 209q,#fff 238q,#fff 263q"></i><i style="--g:#ffa5a5 0,#ffa2a2 7q,#ffb0b0 10q,#ffcfcf 12q,#ffe8e8 13q,#f9f9ff 14q,#bbf 16q,#a2a2ff 17q,#9191ff 19q,#8d8dff 21q,#a2a2ff 28q,#d7d7ff 37q,#f0f0ff 43q,#fdfdff 47q,#fffefe 48q,#ffe9e9 56q,#ffe2e2 60q,#ffe0e0 64q,#ffe7e7 72q,#fff 85q,#f4f4ff 92q,#eef 101q,#f2f2ff 110q,#fff 127q,#fff 129q,#fff5f5 143q,#fff2f2 157q,#fff4f4 178q,#fffcfc 216q,#fff 263q"></i><i style="--g:#ffaeae 0,#ffadad 7q,#ffbebe 10q,#fdd 12q,#fff4f4 13q,#eef 14q,#b6b6ff 16q,#a1a1ff 17q,#9393ff 19q,#9292ff 22q,#a5a5ff 27q,#ceceff 33q,#e8e8ff 38q,#fdfdff 43q,#fffdfd 44q,#ffe1e1 53q,#ffd7d7 58q,#ffd3d3 63q,#ffdbdb 70q,#fff 88q,#f0f0ff 97q,#e9e9ff 107q,#f0f0ff 122q,#fff 142q,#fff9f9 155q,#fff6f6 176q,#fffcfc 223q,#fffefe 263q"></i><i style="--g:#fbb 0,#fbb 6q,#ffc8c8 9q,#ffdfdf 11q,#fff2f2 12q,#f5f5ff 13q,#a6a6ff 16q,#9393ff 18q,#9090ff 21q,#a3a3ff 26q,#c9c9ff 31q,#e1e1ff 35q,#fff 41q,#ffdada 51q,#ffcaca 57q,#ffc5c5 62q,#fcc 69q,#ffe7e7 81q,#fff 93q,#ededff 103q,#e9e9ff 108q,#e8e8ff 114q,#ededff 130q,#fff 156q,#fffafa 187q,#fffefe 263q"></i><i style="--g:#ffc7c7 0,#ffc9c9 5q,#ffd4d4 8q,#ffe7e7 10q,#fff7f7 11q,#f4f4ff 12q,#a8a8ff 15q,#9191ff 17q,#8b8bff 20q,#a3a3ff 26q,#cbcbff 31q,#e4e4ff 35q,#fff 40q,#ffd2d2 51q,#ffc0c0 57q,#ffb9b9 63q,#ffc0c0 69q,#ffd9d9 80q,#fff 99q,#efefff 108q,#eaeaff 114q,#e9e9ff 122q,#ececff 135q,#f8f8ff 156q,#fff 173q,#fffcfc 199q,#fff 263q"></i><i style="--g:#ffd2d2 0,#ffd5d5 4q,#ffdede 7q,#fee 9q,#fffbfb 10q,#f2f2ff 11q,#ddf 12q,#aaf 14q,#8f8fff 16q,#8585ff 19q,#9090ff 23q,#a6a6ff 27q,#c8c8ff 31q,#e2e2ff 35q,#fdfdff 40q,#fffcfc 41q,#fcc 52q,#ffb8b8 58q,#ffb1b1 64q,#ffb6b6 69q,#ffd0d0 81q,#ffe6e6 94q,#fff 105q,#f1f1ff 115q,#ededff 122q,#ebebff 131q,#ededff 142q,#fff 188q,#fffefe 214q,#fff 263q"></i><i style="--g:#ffdbdb 0,#ffdede 4q,#ffe5e5 6q,#fff2f2 8q,#fffcfc 9q,#f4f4ff 10q,#e2e2ff 11q,#9d9dff 14q,#88f 16q,#8080ff 19q,#a1a1ff 27q,#c9c9ff 32q,#e2e2ff 36q,#fdfdff 41q,#fffcfc 42q,#ffc7c7 54q,#ffb3b3 60q,#ffaeae 65q,#fdd 96q,#fff6f6 108q,#fff 113q,#f4f4ff 124q,#efefff 140q,#fff 204q,#fff 263q"></i><i style="--g:#ffe0e0 0,#ffe4e4 4q,#ffebeb 6q,#fff8f8 8q,#fbfbff 9q,#ececff 10q,#d9d9ff 11q,#a8a8ff 13q,#8c8cff 15q,#7d7dff 19q,#a2a2ff 28q,#c8c8ff 33q,#e0e0ff 37q,#fefeff 43q,#fffbfb 44q,#ffcaca 55q,#ffb9b9 60q,#ffb0b0 66q,#ffd4d4 97q,#fff3f3 113q,#fff 122q,#f6f6ff 135q,#f3f3ff 149q,#fff 222q,#fff 263q"></i><i style="--g:#ffe1e1 0,#ffe5e5 4q,#ffebeb 6q,#fff9f9 8q,#fafaff 9q,#ececff 10q,#dadaff 11q,#aaf 13q,#99f 14q,#8484ff 16q,#7d7dff 19q,#a4a4ff 29q,#c7c7ff 34q,#ddf 38q,#fdfdff 45q,#fffdfd 46q,#ffcece 57q,#ffbebe 62q,#ffb7b7 68q,#ffc8c8 83q,#ffd1d1 99q,#fff1f1 120q,#fff 134q,#fff 136q,#f9f9ff 146q,#f7f7ff 161q,#fff 238q,#fff 263q"></i><i style="--g:#ffdfdf 0,#ffe2e2 4q,#ffe7e7 6q,#fff3f3 8q,#fffdfd 9q,#f3f3ff 10q,#e2e2ff 11q,#9e9eff 14q,#88f 16q,#7f7fff 19q,#a2a2ff 29q,#d9d9ff 39q,#fff 48q,#ffd4d4 59q,#ffc7c7 64q,#ffc2c2 69q,#ffcfcf 84q,#ffd3d3 102q,#fff0f0 127q,#fff 146q,#fbfbff 160q,#f9f9ff 178q,#fff 245q,#fff 263q"></i><i style="--g:#ffdada 0,#ffdcdc 4q,#ffe4e4 7q,#fff3f3 9q,#fff 10q,#f0f0ff 11q,#dcdcff 12q,#acacff 14q,#9090ff 16q,#8484ff 19q,#a2a2ff 29q,#c3c3ff 35q,#d8d8ff 40q,#fff 51q,#ffdfdf 60q,#ffd3d3 65q,#ffcfcf 70q,#ffd8d8 85q,#ffd8d8 105q,#fff5f5 142q,#fff 160q,#fcfcff 190q,#fff 263q"></i><i style="--g:#ffd4d4 0,#ffd6d6 5q,#ffdfdf 8q,#fff0f0 10q,#fffdfd 11q,#efefff 12q,#aaf 15q,#9393ff 17q,#8b8bff 20q,#a1a1ff 28q,#c3c3ff 35q,#d9d9ff 41q,#fefeff 53q,#fffdfd 54q,#ffe6e6 62q,#ffdfdf 66q,#ffdcdc 71q,#ffe4e4 86q,#ffdede 102q,#ffe0e0 110q,#fff8f8 155q,#fff 176q,#fdfdff 201q,#fff 263q"></i><i style="--g:#ffcfcf 0,#ffd0d0 6q,#ffdbdb 9q,#fee 11q,#fffdfd 12q,#eef 13q,#aeaeff 16q,#a0a0ff 17q,#9494ff 20q,#a4a4ff 27q,#c7c7ff 35q,#dadaff 41q,#fff 55q,#fff0f0 62q,#ffe8e8 68q,#ffe8e8 73q,#ffefef 88q,#ffe7e7 111q,#ffecec 133q,#fff8f8 164q,#fff 190q,#fff 263q"></i><i style="--g:#fcc 0,#fcc 7q,#ffd9d9 10q,#ffefef 12q,#fff 13q,#b3b3ff 17q,#a1a1ff 19q,#9e9eff 21q,#a6a6ff 25q,#ccf 34q,#dfdfff 41q,#fff 56q,#fff5f5 62q,#fff0f0 68q,#fff0f0 73q,#fff8f8 85q,#fff9f9 90q,#fff1f1 111q,#ffefef 129q,#fff0f0 144q,#fff 206q,#fff 263q"></i><i style="--g:#fcc 0,#ffcbcb 7q,#ffd4d4 10q,#ffe7e7 12q,#fff5f5 13q,#f8f8ff 14q,#c4c4ff 17q,#b0b0ff 19q,#aaf 21q,#d8d8ff 35q,#e7e7ff 41q,#fff 54q,#fff 55q,#fff6f6 61q,#fff3f3 68q,#fff6f6 75q,#fff 86q,#fdfdff 94q,#fff 104q,#fff8f8 119q,#fff3f3 143q,#fff 223q,#fff 263q"></i><i style="--g:#ffcece 0,#ffcdcd 7q,#ffd5d5 10q,#ffe6e6 12q,#fff3f3 13q,#fbfbff 14q,#cdcdff 17q,#bbf 19q,#b6b6ff 21q,#bcbcff 24q,#e1e1ff 35q,#ededff 40q,#fff 50q,#fff5f5 57q,#fff1f1 65q,#fff4f4 73q,#fff 84q,#f9f9ff 93q,#f8f8ff 100q,#fff 120q,#fff 124q,#fff9f9 138q,#fff7f7 155q,#fff 237q,#fff 263q"></i><i style="--g:#ffd3d3 0,#ffd3d3 7q,#ffdcdc 10q,#ffecec 12q,#fff8f8 13q,#f7f7ff 14q,#ceceff 17q,#c0c0ff 19q,#bdbdff 21q,#eef 37q,#fff 45q,#fff1f1 54q,#ffebeb 63q,#fff0f0 72q,#fff 86q,#f7f7ff 97q,#f4f4ff 106q,#f7f7ff 119q,#fff 137q,#fffbfb 154q,#fffafa 173q,#fff 243q,#fff 263q"></i><i style="--g:#ffdada 0,#ffdbdb 6q,#ffe2e2 9q,#fee 11q,#fff8f8 12q,#fbfbff 13q,#d3d3ff 16q,#c2c2ff 18q,#bdbdff 20q,#c4c4ff 23q,#e3e3ff 31q,#f2f2ff 36q,#fff 42q,#ffeded 51q,#ffe6e6 57q,#ffe3e3 62q,#ffe9e9 71q,#fff 91q,#f6f6ff 102q,#f3f3ff 112q,#f6f6ff 128q,#fff 151q,#fffcfc 187q,#fff 263q"></i><i style="--g:#ffe2e2 0,#ffe3e3 5q,#ffe9e9 8q,#fff3f3 10q,#fffbfb 11q,#f9f9ff 12q,#c8c8ff 16q,#bfbfff 17q,#b8b8ff 19q,#bfbfff 22q,#e1e1ff 30q,#efefff 34q,#fff 40q,#ffe8e8 51q,#ffe0e0 57q,#fdd 63q,#ffe2e2 71q,#fff 97q,#f6f6ff 108q,#f3f3ff 120q,#f5f5ff 134q,#fff 167q,#fffdfd 199q,#fff 263q"></i><i style="--g:#ffe9e9 0,#ffeaea 4q,#fff0f0 7q,#fff9f9 9q,#fff 10q,#ebebff 12q,#c5c5ff 15q,#b4b4ff 17q,#b0b0ff 19q,#ebebff 33q,#fff 40q,#ffe4e4 52q,#ffdbdb 58q,#ffd7d7 64q,#ffdcdc 71q,#fff 104q,#f7f7ff 114q,#f5f5ff 129q,#fff 182q,#fff 263q"></i><i style="--g:#fee 0,#fff2f2 5q,#fffcfc 8q,#fdfdff 9q,#ececff 11q,#babaff 15q,#a7a7ff 18q,#afafff 21q,#d9d9ff 29q,#ececff 34q,#fdfdff 40q,#fff 41q,#fff9f9 43q,#ffe3e3 53q,#ffd9d9 59q,#ffd5d5 65q,#ffecec 94q,#fff 111q,#f9f9ff 123q,#f6f6ff 138q,#fff 196q,#fff 263q"></i><i style="--g:#fff2f2 0,#fff6f6 5q,#fefeff 8q,#f0f0ff 10q,#e6e6ff 11q,#b3b3ff 15q,#aaf 16q,#a3a3ff 18q,#a5a5ff 20q,#d1d1ff 28q,#e5e5ff 33q,#fff 42q,#ffe2e2 55q,#ffd9d9 61q,#ffd6d6 67q,#ffe9e9 96q,#fff 120q,#fafaff 134q,#f9f9ff 148q,#fff 209q,#fff 263q"></i><i style="--g:#fff3f3 0,#fff5f5 4q,#fffdfd 7q,#fdfdff 8q,#efefff 10q,#e5e5ff 11q,#b2b2ff 15q,#a9a9ff 16q,#a2a2ff 18q,#a8a8ff 21q,#c9c9ff 27q,#dadaff 31q,#eaeaff 36q,#fefeff 44q,#fffefe 45q,#ffe4e4 57q,#fdd 62q,#ffd9d9 68q,#ffe7e7 98q,#fff7f7 117q,#fff 130q,#fff 135q,#fbfbff 146q,#fbfbff 160q,#fff 219q,#fff 263q"></i><i style="--g:#fff2f2 0,#fff6f6 5q,#fff 8q,#f2f2ff 10q,#e9e9ff 11q,#aeaeff 16q,#a4a4ff 19q,#d4d4ff 30q,#e3e3ff 35q,#fff 47q,#ffe7e7 59q,#ffe1e1 64q,#ffdfdf 70q,#ffe8e8 101q,#fff6f6 123q,#fff 142q,#fcfcff 176q,#fff 223q,#fff 263q"></i><i style="--g:#fff0f0 0,#fff4f4 6q,#fffafa 8q,#fff 9q,#f0f0ff 11q,#b7b7ff 16q,#aaf 19q,#d3d3ff 30q,#e3e3ff 36q,#fff 50q,#ffecec 61q,#ffe5e5 71q,#ffeaea 104q,#fff7f7 133q,#fff 156q,#fdfdff 189q,#fff 220q,#fff 263q"></i><i style="--g:#ffeded 0,#fee 4q,#fff1f1 7q,#fff8f8 9q,#fffdfd 10q,#f9f9ff 11q,#f0f0ff 12q,#c4c4ff 16q,#b6b6ff 19q,#babaff 22q,#dadaff 32q,#e7e7ff 38q,#fff 53q,#fff2f2 62q,#ffecec 72q,#ffefef 86q,#ffeded 108q,#fff 170q,#fff 263q"></i><i style="--g:#ffeaea 0,#ffeaea 5q,#fee 8q,#fff6f6 10q,#fffcfc 11q,#fbfbff 12q,#d2d2ff 16q,#c5c5ff 18q,#c1c1ff 20q,#e7e7ff 38q,#fff 55q,#fff7f7 62q,#fff3f3 69q,#fff5f5 88q,#fff2f2 108q,#fff 184q,#fff 263q"></i><i style="--g:#ffe8e8 0,#ffe8e8 6q,#ffecec 9q,#fff4f4 11q,#fffbfb 12q,#fbfbff 13q,#d7d7ff 17q,#ceceff 19q,#ccf 21q,#ebebff 39q,#fff 56q,#fff7f7 69q,#fffafa 90q,#fff6f6 120q,#fff 197q,#fff 263q"></i><i style="--g:#ffe7e7 0,#ffe7e7 6q,#ffeaea 9q,#fff0f0 11q,#fffcfc 13q,#f9f9ff 14q,#e1e1ff 17q,#d8d8ff 19q,#d5d5ff 21q,#efefff 39q,#fff 55q,#fffafa 68q,#fff 88q,#fff 98q,#fffbfb 114q,#fff9f9 139q,#fff 208q,#fff 263q"></i><i style="--g:#ffe8e8 0,#ffe8e8 7q,#ffecec 10q,#fffafa 13q,#fdfdff 14q,#e7e7ff 17q,#dfdfff 19q,#ddf 21q,#f3f3ff 38q,#fff 51q,#fffbfb 60q,#fffafa 67q,#fff 83q,#fdfdff 98q,#fff 110q,#fff 120q,#fffcfc 132q,#fffbfb 152q,#fff 216q,#fff 263q"></i><i style="--g:#ffeaea 0,#ffeded 9q,#fff2f2 11q,#fffcfc 13q,#fcfcff 14q,#e9e9ff 17q,#e2e2ff 19q,#e1e1ff 21q,#f5f5ff 36q,#fff 46q,#fff 48q,#fff9f9 56q,#fff7f7 64q,#fffafa 74q,#fff 84q,#fbfbff 104q,#fff 129q,#fffcfc 169q,#fff 219q,#fff 263q"></i><i style="--g:#fee 0,#fee 6q,#fff1f1 9q,#fff7f7 11q,#fefeff 13q,#e7e7ff 17q,#e2e2ff 20q,#f6f6ff 34q,#fff 42q,#fff7f7 53q,#fff4f4 63q,#fff7f7 73q,#fff 88q,#fafaff 111q,#fff 144q,#fffdfd 184q,#fff 263q"></i><i style="--g:#fff1f1 0,#fff4f4 7q,#fff7f7 9q,#fffdfd 11q,#fcfcff 12q,#e7e7ff 16q,#e0e0ff 19q,#f7f7ff 33q,#fff 40q,#fff4f4 52q,#fff0f0 63q,#fff3f3 73q,#fff 94q,#fff 98q,#fbfbff 107q,#fafaff 118q,#fff 159q,#fff 263q"></i><i style="--g:#fff5f5 0,#fff7f7 6q,#fff 10q,#e5e5ff 15q,#dedeff 17q,#dcdcff 19q,#f4f4ff 31q,#fff 39q,#fff2f2 53q,#fee 64q,#fff9f9 90q,#fff 101q,#fff 105q,#fbfbff 114q,#fafaff 127q,#fff 172q,#fff 263q"></i><i style="--g:#fff8f8 0,#fffafa 5q,#fff 8q,#f9f9ff 10q,#dfdfff 15q,#d8d8ff 18q,#f3f3ff 31q,#fff 39q,#fff1f1 54q,#ffecec 65q,#fff7f7 93q,#fff 108q,#fbfbff 136q,#fff 184q,#fff 263q"></i><i style="--g:#fffafa 0,#fffbfb 4q,#fff 7q,#f6f6ff 10q,#dbdbff 15q,#d4d4ff 18q,#f1f1ff 31q,#fff 41q,#fff1f1 55q,#ffecec 67q,#fff5f5 95q,#fff 116q,#fcfcff 147q,#fff 193q,#fff 263q"></i><i style="--g:#fffbfb 0,#fffcfc 4q,#fff 6q,#fefeff 7q,#f9f9ff 9q,#f1f1ff 11q,#dadaff 15q,#d3d3ff 18q,#f1f1ff 32q,#fff 43q,#fff2f2 57q,#fee 68q,#fff4f4 97q,#fff 126q,#fdfdff 159q,#fff 198q,#fff 263q"></i><i style="--g:#fffbfb 0,#fffcfc 4q,#fff 7q,#f6f6ff 10q,#dcdcff 15q,#d5d5ff 18q,#f1f1ff 33q,#fff 45q,#fff 47q,#fff3f3 60q,#fff0f0 70q,#fff4f4 100q,#fff 137q,#fefeff 174q,#fff 197q,#fff 263q"></i><i style="--g:#fffafa 0,#fffbfb 5q,#fff 8q,#f5f5ff 11q,#ddf 16q,#d8d8ff 19q,#f0f0ff 33q,#fff 48q,#fff 50q,#fff5f5 62q,#fff3f3 72q,#fff5f5 103q,#fff 149q,#fff 263q"></i><i style="--g:#fff8f8 0,#fffafa 6q,#fff 9q,#fafaff 11q,#e2e2ff 16q,#ddf 19q,#f2f2ff 35q,#fff 51q,#fff 53q,#fff8f8 63q,#fff6f6 73q,#fff7f7 107q,#fff 160q,#fff 263q"></i><i style="--g:#fff7f7 0,#fff9f9 7q,#fff 11q,#e9e9ff 16q,#e4e4ff 18q,#e3e3ff 20q,#f3f3ff 36q,#fff 54q,#fff9f9 69q,#fff8f8 106q,#fff 172q,#fff 263q"></i><i style="--g:#fff6f6 0,#fff7f7 8q,#fff 12q,#efefff 16q,#eaeaff 18q,#e8e8ff 20q,#f5f5ff 37q,#fff 55q,#fffbfb 70q,#fffafa 115q,#fff 181q,#fff 263q"></i><i style="--g:#fff5f5 0,#fff7f7 9q,#fff 13q,#f1f1ff 17q,#ededff 21q,#f7f7ff 37q,#fff 55q,#fffdfd 69q,#fff 95q,#fffcfc 134q,#fff 188q,#fff 263q"></i><i style="--g:#fff5f5 0,#fff6f6 9q,#fffdfd 13q,#fefeff 14q,#f5f5ff 17q,#f0f0ff 21q,#fff 52q,#fffdfd 67q,#fff 79q,#fff 121q,#fffdfd 149q,#fff 191q,#fff 263q"></i><i style="--g:#fff6f6 0,#fff7f7 9q,#fefeff 14q,#f6f6ff 17q,#f3f3ff 21q,#fff 46q,#fffcfc 65q,#fff 80q,#fefeff 103q,#fff 115q,#fffefe 165q,#fff 263q"></i><i style="--g:#fff8f8 0,#fff9f9 9q,#fff 13q,#f6f6ff 17q,#f4f4ff 20q,#fff 41q,#fffbfb 63q,#fff 84q,#fdfdff 110q,#fff 131q,#fff 263q"></i><i style="--g:#fff9f9 0,#fffafa 7q,#fff 12q,#f6f6ff 16q,#f3f3ff 19q,#fff 38q,#fffafa 63q,#fff 90q,#fdfdff 117q,#fff 144q,#fff 263q"></i><i style="--g:#fffbfb 0,#fffcfc 6q,#fff 10q,#f5f5ff 15q,#f2f2ff 18q,#fff 37q,#fff 41q,#fffafa 54q,#fff8f8 64q,#fff 97q,#fdfdff 125q,#fff 154q,#fff 263q"></i><i style="--g:#fffcfc 0,#fff 8q,#f2f2ff 15q,#f0f0ff 18q,#fff 37q,#fff 41q,#fff9f9 55q,#fff8f8 65q,#fff 104q,#fdfdff 135q,#fff 161q,#fff 263q"></i><i style="--g:#fffdfd 0,#fff 7q,#fbfbff 10q,#f0f0ff 15q,#eef 18q,#f8f8ff 28q,#fff 38q,#fff 42q,#fff9f9 56q,#fff8f8 67q,#fffbfb 96q,#fff 111q,#fefeff 145q,#fff 163q,#fff 263q"></i><i style="--g:#fffefe 0,#fff 6q,#fafaff 10q,#f0f0ff 15q,#eef 18q,#f8f8ff 29q,#fff 40q,#fff 44q,#fff9f9 58q,#fff8f8 69q,#fffbfb 98q,#fff 119q,#fff 263q"></i><i style="--g:#fffefe 0,#fff 6q,#fafaff 10q,#f0f0ff 15q,#eef 18q,#f8f8ff 30q,#fff 43q,#fff 47q,#fffafa 60q,#fff9f9 71q,#fffbfb 101q,#fff 127q,#fff 263q"></i><i style="--g:#fffefe 0,#fff 7q,#fcfcff 10q,#f2f2ff 15q,#efefff 18q,#f8f8ff 31q,#fff 45q,#fffafa 73q,#fffbfb 104q,#fff 136q,#fff 263q"></i><i style="--g:#fffdfd 0,#fff 9q,#f3f3ff 16q,#f1f1ff 19q,#f9f9ff 32q,#fff 48q,#fffbfb 75q,#fffcfc 108q,#fff 144q,#fff 263q"></i><i style="--g:#fffcfc 0,#fff 10q,#f6f6ff 16q,#f4f4ff 19q,#fff 50q,#fff 59q,#fffdfd 70q,#fffcfc 103q,#fff 151q,#fff 263q"></i><i style="--g:#fffcfc 0,#fffcfc 7q,#fff 12q,#f8f8ff 16q,#f6f6ff 20q,#fff 52q,#fffdfd 112q,#fff 154q,#fff 263q"></i><i style="--g:#fffcfc 0,#fffcfc 8q,#fff 13q,#f9f9ff 17q,#f8f8ff 21q,#fff 51q,#fffefe 127q,#fff 152q,#fff 263q"></i><i style="--g:#fffcfc 0,#fffcfc 9q,#fff 14q,#fbfbff 17q,#f9f9ff 21q,#fff 48q,#fff 263q"></i><i style="--g:#fffcfc 0,#fffcfc 9q,#fff 14q,#fcfcff 17q,#fbfbff 21q,#fff 42q,#fff 263q"></i><i style="--g:#fffcfc 0,#fffdfd 8q,#fff 14q,#fdfdff 16q,#fbfbff 20q,#fff 37q,#fffefe 64q,#fff 71q,#fff 263q"></i><i style="--g:#fffdfd 0,#fff 13q,#fbfbff 19q,#fff 34q,#fffdfd 63q,#fff 79q,#fff 263q"></i><i style="--g:#fffefe 0,#fff 11q,#fbfbff 18q,#fff 33q,#fffdfd 63q,#fff 86q,#fff 263q"></i><i style="--g:#fff 0,#fff 9q,#fafaff 18q,#fff 33q,#fffdfd 65q,#fff 92q,#fff 263q"></i><i style="--g:#fff 0,#fff 8q,#f9f9ff 17q,#fff 34q,#fffcfc 66q,#fff 99q,#fff 263q"></i><i style="--g:#fff 0,#fff 8q,#f9f9ff 17q,#fff 35q,#fffdfd 69q,#fff 105q,#fff 263q"></i><i style="--g:#fff 0,#fff 8q,#f9f9ff 17q,#fff 37q,#fffdfd 71q,#fff 110q,#fff 263q"></i><i style="--g:#fff 0,#fff 8q,#f9f9ff 18q,#fff 39q,#fffdfd 74q,#fff 113q,#fff 263q"></i><i style="--g:#fff 0,#fff 9q,#fafaff 18q,#fff 40q,#fffefe 77q,#fff 114q,#fff 263q"></i><i style="--g:#fff 0,#fff 11q,#fbfbff 19q,#fff 41q,#fff 263q"></i><i style="--g:#fff 0,#fff 12q,#fcfcff 20q,#fff 41q,#fff 263q"></i><i style="--g:#fffefe 0,#fff 14q,#fdfdff 20q,#fff 39q,#fff 263q"></i><i style="--g:#fffefe 0,#fff 15q,#fdfdff 21q,#fff 35q,#fff 263q"></i><i style="--g:#fff 0,#fff 16q,#fefeff 21q,#fff 30q,#fff 263q"></i><b style="--g:#fff 0,#fefeff 20q,#fff 25q,#fff 263q"></b><i style="--g:#fff 0,#fff 15q,#fefeff 18q,#fff 23q,#fff 263q"></i><b style="--g:#fff 0,#fff 12q,#fdfdff 17q,#fff 25q,#fff 263q"></b><b style="--g:#fff 0,#fff 11q,#fdfdff 17q,#fff 26q,#fff 263q"></b><b style="--g:#fff 0,#fff 12q,#fdfdff 18q,#fff 26q,#fff 263q"></b><i style="--g:#fff 0,#fefeff 18q,#fff 24q,#fff 263q"></i><s></s><s></s><s></s><s></s><s></s><s></s><s></s><s></s><u></u></div>
<div class="p" id="pb" style="left:606px"><i style="--g:#fff 0,#fff 49q,#fffdfd 51q,#fff 53q,#fafaff 55q,#fbfbff 56q,#fefeff 57q,#fff6f6 59q,#fff5f5 60q,#fffafa 61q,#fcfcff 62q,#f5f5ff 63q,#f2f2ff 64q,#f6f6ff 65q,#fff 66q,#fff7f7 67q,#fff3f3 68q,#fff5f5 69q,#fffcfc 70q,#fcfcff 71q,#f8f8ff 72q,#f9f9ff 73q,#fff 75q,#fffcfc 76q,#fff 79q,#fff 83q,#fdfdff 85q,#fff 87q,#fffbfb 89q,#fffbfb 90q,#fffdfd 91q,#fdfdff 92q,#f9f9ff 94q,#fff 96q,#fffafa 98q,#fffefe 100q,#fdfdff 101q,#fcfcff 103q,#fff 105q,#fffefe 107q,#fff 108q,#fff 263q"></i><i style="--g:#fff 0,#fff 49q,#fffdfd 51q,#fff 53q,#fafaff 55q,#fafaff 56q,#fcfcff 57q,#fffdfd 58q,#fff7f7 59q,#fff5f5 60q,#fff8f8 61q,#fff 62q,#f6f6ff 63q,#f2f2ff 64q,#f4f4ff 65q,#fbfbff 66q,#fffafa 67q,#fff4f4 68q,#fff4f4 69q,#fefeff 71q,#f9f9ff 72q,#f8f8ff 73q,#fff 75q,#fffcfc 77q,#fff 79q,#fff 84q,#fdfdff 86q,#fefeff 87q,#fffafa 90q,#fff 92q,#fbfbff 93q,#f9f9ff 94q,#fafaff 95q,#fefeff 96q,#fffafa 98q,#fffafa 99q,#fff 101q,#fcfcff 102q,#fcfcff 103q,#fff 105q,#fffefe 107q,#fff 108q,#fff 263q"></i><i style="--g:#fff 0,#fff 50q,#fffdfd 52q,#fff 53q,#f9f9ff 56q,#fff 58q,#fff8f8 59q,#fff4f4 60q,#fff6f6 61q,#fffcfc 62q,#f9f9ff 63q,#f2f2ff 64q,#f2f2ff 65q,#f8f8ff 66q,#fffcfc 67q,#fff5f5 68q,#fff4f4 69q,#fff8f8 70q,#fff 71q,#fafaff 72q,#f8f8ff 73q,#fdfdff 75q,#fffefe 76q,#fffdfd 78q,#fff 79q,#fff 84q,#fdfdff 86q,#fff 88q,#fffafa 90q,#fffbfb 91q,#fff 92q,#f9f9ff 94q,#f9f9ff 95q,#fffdfd 97q,#fffafa 98q,#fffafa 99q,#fff 101q,#fcfcff 103q,#fff 105q,#fffefe 107q,#fff 108q,#fff 263q"></i><i style="--g:#fff 0,#fff 50q,#fffdfd 52q,#fff 54q,#f9f9ff 56q,#fafaff 57q,#fff 58q,#fff4f4 60q,#fff4f4 61q,#fffafa 62q,#fbfbff 63q,#f3f3ff 64q,#f1f1ff 65q,#f6f6ff 66q,#fff 67q,#fff7f7 68q,#fff4f4 69q,#fff6f6 70q,#fffcfc 71q,#fcfcff 72q,#f9f9ff 73q,#f9f9ff 74q,#fff 76q,#fffdfd 78q,#fff 80q,#fff 84q,#fcfcff 86q,#fff 88q,#fffafa 90q,#fffafa 91q,#fffdfd 92q,#fdfdff 93q,#f9f9ff 94q,#f9f9ff 95q,#fff 97q,#fffbfb 98q,#fffafa 99q,#fffefe 101q,#fdfdff 102q,#fcfcff 104q,#fff 106q,#fff 263q"></i><i style="--g:#fff 0,#fff 50q,#fffdfd 52q,#fff 54q,#f9f9ff 56q,#f9f9ff 57q,#fdfdff 58q,#fffbfb 59q,#fff5f5 60q,#fff3f3 61q,#fff7f7 62q,#fefeff 63q,#f5f5ff 64q,#f1f1ff 65q,#f4f4ff 66q,#fcfcff 67q,#fff9f9 68q,#fff4f4 69q,#fff5f5 70q,#fefeff 72q,#fafaff 73q,#f9f9ff 74q,#fff 76q,#fffdfd 78q,#fff 80q,#fff 84q,#fcfcff 86q,#fcfcff 87q,#fff 88q,#fffafa 91q,#fff 93q,#fafaff 94q,#f8f8ff 95q,#fefeff 97q,#fffafa 99q,#fffafa 100q,#fff 102q,#fdfdff 103q,#fcfcff 104q,#fff 106q,#fff 263q"></i><i style="--g:#fff 0,#fff 50q,#fffcfc 52q,#fffdfd 53q,#fff 54q,#f9f9ff 56q,#f8f8ff 57q,#fffdfd 59q,#fff6f6 60q,#fff3f3 61q,#fff5f5 62q,#fffdfd 63q,#f1f1ff 65q,#f2f2ff 66q,#f9f9ff 67q,#fffcfc 68q,#fff5f5 69q,#fff4f4 70q,#fff8f8 71q,#fff 72q,#fbfbff 73q,#f9f9ff 74q,#fff 77q,#fffdfd 78q,#fff 80q,#fff 84q,#fcfcff 87q,#fdfdff 88q,#fffefe 89q,#fff9f9 91q,#fffbfb 92q,#fff 93q,#f8f8ff 95q,#f9f9ff 96q,#fdfdff 97q,#fffdfd 98q,#fffafa 99q,#fffafa 100q,#fff 102q,#fcfcff 104q,#fff 106q,#fff 263q"></i><i style="--g:#fff 0,#fff 50q,#fffcfc 53q,#fffefe 54q,#fdfdff 55q,#f7f7ff 57q,#f9f9ff 58q,#fff 59q,#fff3f3 61q,#fff3f3 62q,#fffafa 63q,#fafaff 64q,#f2f2ff 65q,#f1f1ff 66q,#f6f6ff 67q,#fff 68q,#fff7f7 69q,#fff4f4 70q,#fff6f6 71q,#fffcfc 72q,#fcfcff 73q,#fafaff 74q,#fafaff 75q,#fff 77q,#fffefe 79q,#fff 80q,#fff 85q,#fcfcff 87q,#fff 89q,#fff9f9 91q,#fffafa 92q,#fffdfd 93q,#fcfcff 94q,#f9f9ff 95q,#f8f8ff 96q,#fff 98q,#fffbfb 99q,#fffafa 100q,#fffefe 102q,#fefeff 103q,#fdfdff 105q,#fff 107q,#fff 263q"></i><i style="--g:#fff 0,#fff 50q,#fffcfc 53q,#fff 55q,#f7f7ff 57q,#f8f8ff 58q,#fdfdff 59q,#fff9f9 60q,#fff3f3 61q,#fff2f2 62q,#fdfdff 64q,#f4f4ff 65q,#f0f0ff 66q,#f3f3ff 67q,#fcfcff 68q,#fff9f9 69q,#fff4f4 70q,#fff5f5 71q,#fff 73q,#fafaff 74q,#fafaff 75q,#fff 77q,#fffefe 79q,#fff 85q,#fcfcff 87q,#fcfcff 88q,#fff 89q,#fff9f9 91q,#fff9f9 92q,#fffcfc 93q,#fefeff 94q,#fafaff 95q,#f8f8ff 96q,#fafaff 97q,#fff 98q,#fffafa 100q,#fff 103q,#fdfdff 105q,#fff 107q,#fff 263q"></i><i style="--g:#fff 0,#fff 51q,#fffcfc 53q,#fffcfc 54q,#fff 55q,#f7f7ff 57q,#f7f7ff 58q,#fbfbff 59q,#fffcfc 60q,#fff4f4 61q,#fff1f1 62q,#fff4f4 63q,#fffefe 64q,#f6f6ff 65q,#f0f0ff 66q,#f2f2ff 67q,#f9f9ff 68q,#fffcfc 69q,#fff6f6 70q,#fff5f5 71q,#fff9f9 72q,#fff 73q,#fafaff 75q,#fff 78q,#fffefe 83q,#fff 85q,#fbfbff 87q,#fdfdff 89q,#fffdfd 90q,#fff9f9 92q,#fffbfb 93q,#fff 94q,#f8f8ff 96q,#f9f9ff 97q,#fdfdff 98q,#fffdfd 99q,#fffafa 100q,#fffafa 101q,#fff 103q,#fdfdff 105q,#fff 107q,#fff 263q"></i><i style="--g:#fff 0,#fff 51q,#fffbfb 53q,#fffcfc 54q,#fffefe 55q,#fcfcff 56q,#f7f7ff 57q,#f6f6ff 58q,#f9f9ff 59q,#fff 60q,#fff6f6 61q,#fff1f1 62q,#fff2f2 63q,#fffafa 64q,#f9f9ff 65q,#f1f1ff 66q,#f0f0ff 67q,#f6f6ff 68q,#fff 69q,#fff7f7 70q,#fff5f5 71q,#fff7f7 72q,#fffcfc 73q,#fdfdff 74q,#fbfbff 75q,#fbfbff 76q,#fff 78q,#fffefe 83q,#fff 85q,#fbfbff 88q,#fff 90q,#fffafa 91q,#fff8f8 92q,#fff9f9 93q,#fffdfd 94q,#f8f8ff 96q,#f8f8ff 97q,#fff 99q,#fffbfb 100q,#fffafa 101q,#fffefe 103q,#fefeff 104q,#fdfdff 106q,#fff 108q,#fff 263q"></i><i style="--g:#fff 0,#fff 48q,#fefeff 49q,#fff 51q,#fffbfb 53q,#fffbfb 54q,#fffdfd 55q,#fdfdff 56q,#f5f5ff 58q,#f7f7ff 59q,#fdfdff 60q,#fff1f1 62q,#fff0f0 63q,#fff7f7 64q,#fcfcff 65q,#f3f3ff 66q,#f0f0ff 67q,#f4f4ff 68q,#fcfcff 69q,#fff9f9 70q,#fff5f5 71q,#fff6f6 72q,#fff 74q,#fbfbff 75q,#fbfbff 76q,#fff 78q,#fffdfd 84q,#fff 85q,#fbfbff 88q,#fcfcff 89q,#fff 90q,#fff8f8 92q,#fff9f9 93q,#fffcfc 94q,#fdfdff 95q,#f9f9ff 96q,#f8f8ff 97q,#fafaff 98q,#fff 99q,#fffafa 101q,#fff 104q,#fdfdff 106q,#fff 108q,#fff 263q"></i><i style="--g:#fff 0,#fff 48q,#fefeff 49q,#fff 51q,#fffbfb 54q,#fff 56q,#f5f5ff 58q,#f5f5ff 59q,#fbfbff 60q,#fffafa 61q,#fff2f2 62q,#ffefef 63q,#fff4f4 64q,#fff 65q,#f5f5ff 66q,#f0f0ff 67q,#f2f2ff 68q,#f9f9ff 69q,#fffcfc 70q,#fff6f6 71q,#fff5f5 72q,#fffefe 74q,#fbfbff 76q,#fff 79q,#fffdfd 84q,#fff 86q,#fbfbff 88q,#fbfbff 89q,#fefeff 90q,#fffcfc 91q,#fff9f9 92q,#fff8f8 93q,#fff 95q,#fafaff 96q,#f8f8ff 97q,#f9f9ff 98q,#fdfdff 99q,#fffdfd 100q,#fffbfb 101q,#fffbfb 102q,#fff 104q,#fdfdff 106q,#fff 108q,#fff 263q"></i><i style="--g:#fff 0,#fff 48q,#fefeff 50q,#fff 51q,#fffafa 54q,#fffbfb 55q,#fff 56q,#f5f5ff 58q,#f4f4ff 59q,#f8f8ff 60q,#fffdfd 61q,#fff4f4 62q,#ffefef 63q,#fff1f1 64q,#fffafa 65q,#f8f8ff 66q,#f1f1ff 67q,#f0f0ff 68q,#f6f6ff 69q,#fff 70q,#fff8f8 71q,#fff5f5 72q,#fffcfc 74q,#fdfdff 75q,#fcfcff 77q,#fff 79q,#fff 82q,#fffdfd 84q,#fff 86q,#fbfbff 88q,#fafaff 89q,#fcfcff 90q,#fffefe 91q,#fff8f8 93q,#fff9f9 94q,#fffefe 95q,#f8f8ff 97q,#f8f8ff 98q,#fff 100q,#fffcfc 101q,#fffbfb 102q,#fff 105q,#fdfdff 106q,#fff 108q,#fff 263q"></i><i style="--g:#fff 0,#fff 48q,#fdfdff 50q,#fff 52q,#fffafa 54q,#fffafa 55q,#fffdfd 56q,#fcfcff 57q,#f6f6ff 58q,#f3f3ff 59q,#f6f6ff 60q,#fff 61q,#ffefef 63q,#ffefef 64q,#fff7f7 65q,#fcfcff 66q,#f3f3ff 67q,#f0f0ff 68q,#f4f4ff 69q,#fcfcff 70q,#fffafa 71q,#fff6f6 72q,#fff7f7 73q,#fff 75q,#fcfcff 76q,#fcfcff 77q,#fff 80q,#fff 82q,#fffdfd 84q,#fff 86q,#fafaff 89q,#fff 91q,#fff8f8 93q,#fff8f8 94q,#fffcfc 95q,#fdfdff 96q,#f9f9ff 97q,#f8f8ff 98q,#fafaff 99q,#fff 100q,#fffbfb 102q,#fff 105q,#fdfdff 107q,#fff 109q,#fff 263q"></i><i style="--g:#fff 0,#fff 48q,#fdfdff 50q,#fff 52q,#fff9f9 55q,#fdfdff 57q,#f3f3ff 59q,#f4f4ff 60q,#fbfbff 61q,#fff9f9 62q,#fff0f0 63q,#fee 64q,#fff4f4 65q,#fff 66q,#f5f5ff 67q,#f0f0ff 68q,#f2f2ff 69q,#f9f9ff 70q,#fffcfc 71q,#fff7f7 72q,#fff6f6 73q,#fffefe 75q,#fcfcff 77q,#fff 80q,#fffdfd 85q,#fff 87q,#fafaff 89q,#fafaff 90q,#fefeff 91q,#fff8f8 93q,#fff7f7 94q,#fff 96q,#fafaff 97q,#f8f8ff 98q,#fffefe 101q,#fffbfb 103q,#fff 105q,#fefeff 107q,#fff 109q,#fff 263q"></i><i style="--g:#fff 0,#fff 48q,#fdfdff 51q,#fff 52q,#fff9f9 55q,#fffafa 56q,#fff 57q,#f3f3ff 59q,#f2f2ff 60q,#f8f8ff 61q,#fffcfc 62q,#fff2f2 63q,#ffeded 64q,#fff1f1 65q,#fffafa 66q,#f8f8ff 67q,#f1f1ff 68q,#f0f0ff 69q,#f6f6ff 70q,#fff 71q,#fff9f9 72q,#fff6f6 73q,#fff 76q,#fcfcff 77q,#fcfcff 78q,#fff 80q,#fff 82q,#fffcfc 85q,#fff 87q,#f9f9ff 89q,#f9f9ff 90q,#fcfcff 91q,#fffdfd 92q,#fff9f9 93q,#fff7f7 94q,#fff9f9 95q,#fffefe 96q,#f8f8ff 98q,#f8f8ff 99q,#fff 101q,#fffbfb 103q,#fff 106q,#fefeff 107q,#fff 109q,#fff 263q"></i><i style="--g:#fff 0,#fff 49q,#fdfdff 50q,#fefeff 52q,#fffefe 53q,#fff9f9 55q,#fff9f9 56q,#fffdfd 57q,#fafaff 58q,#f4f4ff 59q,#f1f1ff 60q,#f5f5ff 61q,#fff 62q,#fff4f4 63q,#ffeeee 64q,#fee 65q,#fff7f7 66q,#fcfcff 67q,#f3f3ff 68q,#f0f0ff 69q,#f4f4ff 70q,#fcfcff 71q,#fffbfb 72q,#fff7f7 73q,#fff8f8 74q,#fff 76q,#fcfcff 78q,#fff 81q,#fff 83q,#fffcfc 85q,#fffcfc 86q,#fff 87q,#f9f9ff 90q,#fff 92q,#fffafa 93q,#fff7f7 94q,#fff8f8 95q,#fffcfc 96q,#fdfdff 97q,#f9f9ff 98q,#f8f8ff 99q,#fefeff 101q,#fffdfd 102q,#fffcfc 104q,#fff 106q,#fefeff 108q,#fff 109q,#fff 263q"></i><i style="--g:#fff 0,#fff 49q,#fdfdff 51q,#fff 53q,#fff8f8 55q,#fff8f8 56q,#fffbfb 57q,#fcfcff 58q,#f5f5ff 59q,#f1f1ff 60q,#f3f3ff 61q,#fbfbff 62q,#fff8f8 63q,#ffefef 64q,#ffeded 65q,#fff3f3 66q,#fff 67q,#f5f5ff 68q,#f0f0ff 69q,#f2f2ff 70q,#f9f9ff 71q,#fffdfd 72q,#fff8f8 73q,#fff7f7 74q,#fffefe 76q,#fefeff 77q,#fdfdff 79q,#fff 81q,#fff 83q,#fffcfc 85q,#fffefe 87q,#fdfdff 88q,#f8f8ff 90q,#fafaff 91q,#fefeff 92q,#fff7f7 94q,#fff7f7 95q,#fff 97q,#fafaff 98q,#f8f8ff 99q,#fffefe 102q,#fffcfc 104q,#fff 106q,#fefeff 108q,#fff 109q,#fff 263q"></i><i style="--g:#fff 0,#fff 49q,#fdfdff 51q,#fff 53q,#fff7f7 56q,#fff9f9 57q,#fff 58q,#f1f1ff 60q,#f0f0ff 61q,#f7f7ff 62q,#fffbfb 63q,#fff0f0 64q,#ffecec 65q,#fff0f0 66q,#fffafa 67q,#f8f8ff 68q,#f1f1ff 69q,#f1f1ff 70q,#f7f7ff 71q,#fff 72q,#fffafa 73q,#fff8f8 74q,#fff 77q,#fdfdff 79q,#fff 83q,#fffcfc 86q,#fff 88q,#f8f8ff 90q,#f9f9ff 91q,#fcfcff 92q,#fffdfd 93q,#fff8f8 94q,#fff6f6 95q,#fff9f9 96q,#fffdfd 97q,#f8f8ff 99q,#f9f9ff 100q,#fff 102q,#fffcfc 104q,#fff 107q,#fff 263q"></i><i style="--g:#fff 0,#fff 49q,#fcfcff 52q,#fefeff 53q,#fffdfd 54q,#fff7f7 56q,#fff8f8 57q,#fffdfd 58q,#f9f9ff 59q,#f1f1ff 60q,#efefff 61q,#f4f4ff 62q,#fff 63q,#fff3f3 64q,#ffecec 65q,#fee 66q,#fff6f6 67q,#fcfcff 68q,#f3f3ff 69q,#f0f0ff 70q,#f4f4ff 71q,#fcfcff 72q,#fffcfc 73q,#fff8f8 74q,#fff9f9 75q,#fff 77q,#fdfdff 79q,#fff 83q,#fffbfb 86q,#fffcfc 87q,#fff 88q,#f9f9ff 90q,#f8f8ff 91q,#fff 93q,#fff9f9 94q,#fff6f6 95q,#fff7f7 96q,#fffcfc 97q,#fdfdff 98q,#f9f9ff 99q,#f8f8ff 100q,#fefeff 102q,#fffdfd 103q,#fffcfc 105q,#fff 107q,#fff 263q"></i><i style="--g:#fff 0,#fff 49q,#fcfcff 52q,#fff 54q,#fff6f6 56q,#fff6f6 57q,#fffbfb 58q,#fbfbff 59q,#f2f2ff 60q,#eef 61q,#f1f1ff 62q,#fbfbff 63q,#fff6f6 64q,#ffeded 65q,#ffecec 66q,#fff3f3 67q,#fff 68q,#f6f6ff 69q,#f1f1ff 70q,#f3f3ff 71q,#fffefe 73q,#fff9f9 74q,#fff8f8 75q,#fff 78q,#fdfdff 80q,#fff 84q,#fffbfb 86q,#fffdfd 88q,#fdfdff 89q,#f7f7ff 91q,#f9f9ff 92q,#fefeff 93q,#fff7f7 95q,#fff6f6 96q,#fff 98q,#fafaff 99q,#f8f8ff 100q,#fff 103q,#fffcfc 104q,#fffcfc 105q,#fff 107q,#fff 263q"></i><i style="--g:#fff 0,#fff 49q,#fcfcff 52q,#fff 54q,#fff7f7 56q,#fff5f5 57q,#fff9f9 58q,#fefeff 59q,#f4f4ff 60q,#eef 61q,#efefff 62q,#f7f7ff 63q,#fffafa 64q,#ffefef 65q,#ffebeb 66q,#fff0f0 67q,#fffafa 68q,#f9f9ff 69q,#f2f2ff 70q,#f2f2ff 71q,#fefeff 73q,#fff9f9 75q,#fff 78q,#fdfdff 81q,#fff 84q,#fffbfb 86q,#fffcfc 88q,#fefeff 89q,#f7f7ff 91q,#f8f8ff 92q,#fcfcff 93q,#fffcfc 94q,#fff7f7 95q,#fff6f6 96q,#fff8f8 97q,#fffdfd 98q,#f9f9ff 100q,#f9f9ff 101q,#fff 103q,#fffcfc 105q,#fff 108q,#fff 263q"></i><i style="--g:#fff 0,#fff 50q,#fbfbff 52q,#fefeff 54q,#fffcfc 55q,#fff4f4 57q,#fff6f6 58q,#fffdfd 59q,#efefff 61q,#ededff 62q,#f3f3ff 63q,#fff 64q,#fff2f2 65q,#ffebeb 66q,#ffeded 67q,#fff6f6 68q,#fcfcff 69q,#f4f4ff 70q,#f1f1ff 71q,#f5f5ff 72q,#fbfbff 73q,#fffdfd 74q,#fff9f9 75q,#fff9f9 76q,#fff 78q,#fdfdff 81q,#fff 84q,#fffafa 87q,#fffbfb 88q,#fff 89q,#f7f7ff 91q,#f7f7ff 92q,#fff 94q,#fff9f9 95q,#fff6f6 96q,#fff7f7 97q,#fffbfb 98q,#fdfdff 99q,#fafaff 100q,#f9f9ff 101q,#fefeff 103q,#fffefe 104q,#fffcfc 106q,#fff 108q,#fff 263q"></i><i style="--g:#fff 0,#fff 50q,#fbfbff 53q,#fffdfd 55q,#fff4f4 57q,#fff5f5 58q,#fffbfb 59q,#fafaff 60q,#f0f0ff 61q,#ececff 62q,#f0f0ff 63q,#fbfbff 64q,#fff6f6 65q,#ffeded 66q,#ffebeb 67q,#fff2f2 68q,#fffefe 69q,#f6f6ff 70q,#f2f2ff 71q,#f3f3ff 72q,#fff 74q,#fffafa 75q,#fff9f9 76q,#fff 79q,#fdfdff 82q,#fff 84q,#fffafa 87q,#fffbfb 88q,#fffdfd 89q,#fcfcff 90q,#f8f8ff 91q,#f6f6ff 92q,#f9f9ff 93q,#fefeff 94q,#fff6f6 96q,#fff6f6 97q,#fff 99q,#fbfbff 100q,#f9f9ff 101q,#fff 104q,#fffcfc 106q,#fff 108q,#fff 263q"></i><i style="--g:#fff 0,#fff 47q,#fffefe 48q,#fff 50q,#fafaff 53q,#fff 55q,#fff4f4 57q,#fff3f3 58q,#fff8f8 59q,#fdfdff 60q,#f2f2ff 61q,#ececff 62q,#ededff 63q,#f6f6ff 64q,#fffafa 65q,#ffefef 66q,#ffebeb 67q,#ffefef 68q,#fffafa 69q,#fafaff 70q,#f3f3ff 71q,#f3f3ff 72q,#fdfdff 74q,#fffafa 76q,#fff 79q,#fdfdff 82q,#fff 85q,#fffafa 87q,#fffafa 88q,#fffcfc 89q,#fdfdff 90q,#f6f6ff 92q,#f7f7ff 93q,#fcfcff 94q,#fffcfc 95q,#fff7f7 96q,#fff6f6 97q,#fffdfd 99q,#fcfcff 100q,#f9f9ff 101q,#f9f9ff 102q,#fff 104q,#fffdfd 106q,#fff 109q,#fff 263q"></i><i style="--g:#fff 0,#fff 47q,#fffefe 48q,#fff 50q,#fafaff 53q,#fbfbff 54q,#fefeff 55q,#fff5f5 57q,#fff2f2 58q,#fff5f5 59q,#fffefe 60q,#ececff 62q,#ebebff 63q,#f2f2ff 64q,#fff 65q,#fff2f2 66q,#ffebeb 67q,#ffeded 68q,#fdfdff 70q,#f5f5ff 71q,#f2f2ff 72q,#f5f5ff 73q,#fbfbff 74q,#fffdfd 75q,#fffafa 76q,#fffafa 77q,#fff 80q,#fcfcff 83q,#fff 85q,#fff9f9 88q,#fffbfb 89q,#fff 90q,#f6f6ff 92q,#f6f6ff 93q,#fff 95q,#fff8f8 96q,#fff6f6 97q,#fff7f7 98q,#fefeff 100q,#fafaff 101q,#f9f9ff 102q,#fff 105q,#fffdfd 107q,#fff 109q,#fff 263q"></i><i style="--g:#fff 0,#fff 47q,#fffefe 49q,#fff 51q,#fafaff 53q,#fafaff 54q,#fcfcff 55q,#fffcfc 56q,#fff1f1 58q,#fff3f3 59q,#fffafa 60q,#f8f8ff 61q,#eef 62q,#eaeaff 63q,#eef 64q,#fafaff 65q,#fff6f6 66q,#ffecec 67q,#ffebeb 68q,#fff2f2 69q,#fffdfd 70q,#f8f8ff 71q,#f3f3ff 72q,#f4f4ff 73q,#fff 75q,#fffcfc 76q,#fffafa 77q,#fff 80q,#fcfcff 83q,#fff 85q,#fff9f9 88q,#fffafa 89q,#fffdfd 90q,#fbfbff 91q,#f7f7ff 92q,#f5f5ff 93q,#f8f8ff 94q,#fefeff 95q,#fff6f6 97q,#fff6f6 98q,#fff 100q,#f9f9ff 102q,#fff 105q,#fffdfd 107q,#fff 109q,#fff 263q"></i><i style="--g:#fff 0,#fff 47q,#fffefe 49q,#fff 51q,#f9f9ff 54q,#fffefe 56q,#fff1f1 58q,#fff1f1 59q,#fff7f7 60q,#fcfcff 61q,#f0f0ff 62q,#e9e9ff 63q,#ebebff 64q,#f6f6ff 65q,#fffafa 66q,#ffefef 67q,#ffebeb 68q,#ffefef 69q,#fff9f9 70q,#fbfbff 71q,#f4f4ff 72q,#f4f4ff 73q,#fdfdff 75q,#fffdfd 76q,#fffbfb 78q,#fff 80q,#fcfcff 84q,#fff 86q,#fff9f9 88q,#fff9f9 89q,#fffcfc 90q,#fdfdff 91q,#f8f8ff 92q,#f5f5ff 93q,#f6f6ff 94q,#fbfbff 95q,#fffcfc 96q,#fff7f7 97q,#fff6f6 98q,#fffdfd 100q,#fdfdff 101q,#fafaff 102q,#fafaff 103q,#fff 105q,#fffdfd 107q,#fff 109q,#fff 263q"></i><i style="--g:#fff 0,#fff 47q,#fffdfd 49q,#fff 51q,#f9f9ff 54q,#fafaff 55q,#fff 56q,#fff2f2 58q,#ffefef 59q,#fff3f3 60q,#fffefe 61q,#eaeaff 63q,#e9e9ff 64q,#f1f1ff 65q,#fff 66q,#fff2f2 67q,#ffebeb 68q,#ffeded 69q,#fff 71q,#f6f6ff 72q,#f4f4ff 73q,#f6f6ff 74q,#fff 76q,#fffcfc 77q,#fffbfb 78q,#fff 81q,#fcfcff 84q,#fff 86q,#fff9f9 88q,#fff8f8 89q,#fffafa 90q,#fff 91q,#f5f5ff 93q,#f5f5ff 94q,#fff 96q,#fff8f8 97q,#fff6f6 98q,#fff7f7 99q,#fff 101q,#fbfbff 102q,#fafaff 103q,#fff 106q,#fffdfd 108q,#fff 110q,#fff 263q"></i><i style="--g:#fff 0,#fff 47q,#fffdfd 50q,#fff 51q,#f8f8ff 54q,#f8f8ff 55q,#fcfcff 56q,#fffbfb 57q,#fff3f3 58q,#ffefef 59q,#fff1f1 60q,#fffafa 61q,#f7f7ff 62q,#ececff 63q,#e8e8ff 64q,#ededff 65q,#fafaff 66q,#fff6f6 67q,#ffeded 68q,#ffebeb 69q,#fff2f2 70q,#fffcfc 71q,#f9f9ff 72q,#f5f5ff 73q,#f5f5ff 74q,#fff 76q,#fffbfb 78q,#fff 81q,#fcfcff 84q,#fefeff 86q,#fff8f8 89q,#fff9f9 90q,#fffdfd 91q,#f6f6ff 93q,#f4f4ff 94q,#f7f7ff 95q,#fdfdff 96q,#fff6f6 98q,#fff6f6 99q,#fff9f9 100q,#fff 101q,#fafaff 103q,#fbfbff 104q,#fff 106q,#fffdfd 108q,#fff 110q,#fff 263q"></i><i style="--g:#fff 0,#fff 48q,#fffdfd 50q,#fff 52q,#f8f8ff 54q,#f7f7ff 55q,#fffdfd 57q,#fee 59q,#fee 60q,#fff6f6 61q,#fcfcff 62q,#eef 63q,#e7e7ff 64q,#eaeaff 65q,#f5f5ff 66q,#fffbfb 67q,#ffefef 68q,#ffebeb 69q,#ffefef 70q,#fff8f8 71q,#fcfcff 72q,#f6f6ff 73q,#f5f5ff 74q,#fdfdff 76q,#fffefe 77q,#fffbfb 79q,#fff 82q,#fcfcff 84q,#fdfdff 86q,#fffefe 87q,#fff7f7 89q,#fff8f8 90q,#fffbfb 91q,#fdfdff 92q,#f7f7ff 93q,#f4f4ff 94q,#f6f6ff 95q,#fbfbff 96q,#fffcfc 97q,#fff7f7 98q,#fff6f6 99q,#fffcfc 101q,#fdfdff 102q,#fafaff 104q,#fff 107q,#fffefe 109q,#fff 110q,#fff 263q"></i><i style="--g:#fff 0,#fff 48q,#fffdfd 50q,#fff 52q,#f7f7ff 55q,#f8f8ff 56q,#fff 57q,#ffefef 59q,#ffecec 60q,#fff2f2 61q,#fffefe 62q,#f2f2ff 63q,#e8e8ff 64q,#e7e7ff 65q,#f0f0ff 66q,#fefeff 67q,#fff3f3 68q,#ffecec 69q,#ffeded 70q,#fff 72q,#f8f8ff 73q,#f5f5ff 74q,#f7f7ff 75q,#fff 77q,#fffcfc 79q,#fff 82q,#fbfbff 85q,#fff 87q,#fff8f8 89q,#fff7f7 90q,#fffafa 91q,#fff 92q,#f8f8ff 93q,#f4f4ff 94q,#f4f4ff 95q,#fff 97q,#fff9f9 98q,#fff6f6 99q,#fff7f7 100q,#fff 102q,#fcfcff 103q,#fbfbff 104q,#fff 107q,#fffefe 109q,#fff 110q,#fff 263q"></i><i style="--g:#fff 0,#fff 48q,#fffdfd 50q,#fffdfd 51q,#fff 52q,#f6f6ff 55q,#f7f7ff 56q,#fcfcff 57q,#fff9f9 58q,#fff0f0 59q,#ffebeb 60q,#fee 61q,#fff9f9 62q,#f6f6ff 63q,#eaeaff 64q,#e6e6ff 65q,#ececff 66q,#f9f9ff 67q,#fff7f7 68q,#ffeded 69q,#ffecec 70q,#fff2f2 71q,#fffbfb 72q,#fbfbff 73q,#f6f6ff 74q,#f6f6ff 75q,#fefeff 77q,#fffdfd 78q,#fffcfc 80q,#fff 82q,#fbfbff 85q,#fefeff 87q,#fff6f6 90q,#fff8f8 91q,#fffdfd 92q,#f5f5ff 94q,#f4f4ff 95q,#f7f7ff 96q,#fdfdff 97q,#fffbfb 98q,#fff7f7 99q,#fff6f6 100q,#fffefe 102q,#fdfdff 103q,#fbfbff 105q,#fff 107q,#fffefe 109q,#fff 110q,#fff 263q"></i><i style="--g:#fff 0,#fff 48q,#fffcfc 50q,#fffdfd 52q,#fefeff 53q,#f6f6ff 55q,#f5f5ff 56q,#f9f9ff 57q,#fffcfc 58q,#fff2f2 59q,#ffebeb 60q,#ffebeb 61q,#fff4f4 62q,#fbfbff 63q,#ededff 64q,#e6e6ff 65q,#e8e8ff 66q,#f3f3ff 67q,#fffcfc 68q,#fff0f0 69q,#ffecec 70q,#ffefef 71q,#fff8f8 72q,#fdfdff 73q,#f8f8ff 74q,#f6f6ff 75q,#fff 78q,#fffcfc 80q,#fff 83q,#fbfbff 85q,#fdfdff 87q,#fffdfd 88q,#fff6f6 90q,#fff6f6 91q,#fffbfb 92q,#fcfcff 93q,#f6f6ff 94q,#f3f3ff 95q,#f5f5ff 96q,#fafaff 97q,#fffdfd 98q,#fff8f8 99q,#fff6f6 100q,#fff 103q,#fcfcff 104q,#fbfbff 105q,#fff 108q,#fff 263q"></i><i style="--g:#fff 0,#fff 48q,#fffcfc 51q,#fff 53q,#f6f6ff 55q,#f4f4ff 56q,#f7f7ff 57q,#fff 58q,#ffecec 60q,#ffe9e9 61q,#fff0f0 62q,#fffdfd 63q,#f1f1ff 64q,#e7e7ff 65q,#e6e6ff 66q,#eef 67q,#fdfdff 68q,#fff4f4 69q,#ffeded 70q,#fee 71q,#fffefe 73q,#fafaff 74q,#f7f7ff 75q,#f8f8ff 76q,#fff 78q,#fffcfc 80q,#fff 83q,#fafaff 86q,#fff 88q,#fff6f6 90q,#fff5f5 91q,#fff9f9 92q,#fff 93q,#f8f8ff 94q,#f4f4ff 95q,#f4f4ff 96q,#fff 98q,#fff9f9 99q,#fff6f6 100q,#fff7f7 101q,#fff 103q,#fbfbff 105q,#fff 108q,#fff 263q"></i><i style="--g:#fff 0,#fff 48q,#fffcfc 51q,#fffcfc 52q,#fff 53q,#f3f3ff 56q,#f5f5ff 57q,#fbfbff 58q,#fff8f8 59q,#ffeded 60q,#ffe8e8 61q,#ffecec 62q,#fff8f8 63q,#f6f6ff 64q,#e9e9ff 65q,#e5e5ff 66q,#eaeaff 67q,#f7f7ff 68q,#fff9f9 69q,#ffefef 70q,#ffeded 71q,#fff2f2 72q,#fffafa 73q,#fcfcff 74q,#f8f8ff 75q,#f8f8ff 76q,#fdfdff 78q,#fffefe 79q,#fffcfc 81q,#fff 83q,#fafaff 86q,#fbfbff 87q,#fefeff 88q,#fff7f7 90q,#fff5f5 91q,#fff7f7 92q,#fffdfd 93q,#fafaff 94q,#f4f4ff 95q,#f3f3ff 96q,#f6f6ff 97q,#fcfcff 98q,#fffbfb 99q,#fff7f7 100q,#fff7f7 101q,#fffdfd 103q,#fefeff 104q,#fcfcff 106q,#fff 108q,#fff 263q"></i><i style="--g:#fff 0,#fff 49q,#fffbfb 51q,#fffdfd 53q,#fdfdff 54q,#f3f3ff 56q,#f3f3ff 57q,#f8f8ff 58q,#fffbfb 59q,#fff0f0 60q,#ffe8e8 61q,#ffe9e9 62q,#fff2f2 63q,#fcfcff 64q,#ededff 65q,#e5e5ff 66q,#e7e7ff 67q,#fffefe 69q,#fff2f2 70q,#ffeded 71q,#fff0f0 72q,#fff 74q,#f9f9ff 75q,#f8f8ff 76q,#fff 79q,#fffcfc 81q,#fffefe 83q,#fefeff 84q,#f9f9ff 86q,#fafaff 87q,#fcfcff 88q,#fffdfd 89q,#fff4f4 91q,#fff5f5 92q,#fffafa 93q,#fcfcff 94q,#f6f6ff 95q,#f3f3ff 96q,#f4f4ff 97q,#fffefe 99q,#fff9f9 100q,#fff7f7 101q,#fff8f8 102q,#fff 104q,#fcfcff 106q,#fff 109q,#fff 263q"></i><i style="--g:#fff 0,#fff 49q,#fffbfb 52q,#fff 54q,#f3f3ff 56q,#f1f1ff 57q,#f5f5ff 58q,#fff 59q,#ffe9e9 61q,#ffe6e6 62q,#ffeded 63q,#fffcfc 64q,#e6e6ff 66q,#e5e5ff 67q,#ededff 68q,#fbfbff 69q,#fff6f6 70q,#ffefef 71q,#ffefef 72q,#fffdfd 74q,#fbfbff 75q,#f8f8ff 76q,#f9f9ff 77q,#fff 79q,#fffcfc 82q,#fff 84q,#fafaff 86q,#f9f9ff 87q,#fff 89q,#fff5f5 91q,#fff4f4 92q,#fff8f8 93q,#fff 94q,#f8f8ff 95q,#f3f3ff 96q,#f3f3ff 97q,#f8f8ff 98q,#fff 99q,#fff7f7 101q,#fff8f8 102q,#fffefe 104q,#fdfdff 105q,#fcfcff 107q,#fff 109q,#fff 263q"></i><i style="--g:#fff 0,#fff 49q,#fffafa 52q,#fffbfb 53q,#fff 54q,#f0f0ff 57q,#f2f2ff 58q,#fbfbff 59q,#fff7f7 60q,#ffebeb 61q,#ffe5e5 62q,#ffe9e9 63q,#fff6f6 64q,#f7f7ff 65q,#e9e9ff 66q,#e4e4ff 67q,#e9e9ff 68q,#f6f6ff 69q,#fffafa 70q,#fff1f1 71q,#ffefef 72q,#fff3f3 73q,#fffafa 74q,#fdfdff 75q,#f9f9ff 76q,#f9f9ff 77q,#fff 80q,#fffcfc 82q,#fff 84q,#f8f8ff 87q,#fafaff 88q,#fefeff 89q,#fff5f5 91q,#fff3f3 92q,#fff6f6 93q,#fffcfc 94q,#fafaff 95q,#f4f4ff 96q,#f3f3ff 97q,#f6f6ff 98q,#fcfcff 99q,#fffcfc 100q,#fff8f8 101q,#fff7f7 102q,#fff 105q,#fcfcff 107q,#fff 109q,#fff 263q"></i><i style="--g:#fff 0,#fff 46q,#fefeff 47q,#fff 49q,#fffafa 52q,#fffafa 53q,#fffdfd 54q,#fcfcff 55q,#f0f0ff 57q,#f0f0ff 58q,#f7f7ff 59q,#fffbfb 60q,#ffeded 61q,#ffe5e5 62q,#ffe6e6 63q,#fff0f0 64q,#fdfdff 65q,#ededff 66q,#e4e4ff 67q,#e6e6ff 68q,#f1f1ff 69q,#fff 70q,#fff4f4 71q,#ffefef 72q,#fff1f1 73q,#fff 75q,#f9f9ff 77q,#fff 80q,#fffcfc 82q,#fffefe 84q,#fdfdff 85q,#f8f8ff 87q,#f8f8ff 88q,#fcfcff 89q,#fffcfc 90q,#fff3f3 92q,#fff4f4 93q,#fff9f9 94q,#fdfdff 95q,#f6f6ff 96q,#f2f2ff 97q,#f4f4ff 98q,#fff 100q,#fffafa 101q,#fff8f8 102q,#fff9f9 103q,#fff 105q,#fdfdff 107q,#fff 110q,#fff 263q"></i><i style="--g:#fff 0,#fff 46q,#fefeff 48q,#fff 50q,#fffafa 52q,#fff9f9 53q,#fefeff 55q,#f0f0ff 57q,#eef 58q,#f3f3ff 59q,#fff 60q,#ffe6e6 62q,#ffe3e3 63q,#ffebeb 64q,#fffbfb 65q,#f2f2ff 66q,#e6e6ff 67q,#e4e4ff 68q,#ececff 69q,#f9f9ff 70q,#fff8f8 71q,#fff1f1 72q,#fff0f0 73q,#fffcfc 75q,#fdfdff 76q,#fafaff 77q,#fafaff 78q,#fff 80q,#fffcfc 83q,#fff 85q,#f8f8ff 87q,#f7f7ff 88q,#fff 90q,#fff3f3 92q,#fff3f3 93q,#fff7f7 94q,#fff 95q,#f3f3ff 97q,#f3f3ff 98q,#fdfdff 100q,#fff8f8 102q,#fff8f8 103q,#fff 106q,#fdfdff 108q,#fff 110q,#fff 263q"></i><i style="--g:#fff 0,#fff 46q,#fefeff 48q,#fff 50q,#fff9f9 53q,#fffafa 54q,#fff 55q,#f1f1ff 57q,#ededff 58q,#f0f0ff 59q,#fafaff 60q,#fff6f6 61q,#ffe8e8 62q,#ffe2e2 63q,#ffe6e6 64q,#fff4f4 65q,#f8f8ff 66q,#e9e9ff 67q,#e4e4ff 68q,#e9e9ff 69q,#f4f4ff 70q,#fffdfd 71q,#fff3f3 72q,#fff0f0 73q,#fff3f3 74q,#fff 76q,#fbfbff 77q,#fafaff 78q,#fff 81q,#fffbfb 83q,#fff 85q,#f7f7ff 88q,#f8f8ff 89q,#fdfdff 90q,#fff4f4 92q,#fff2f2 93q,#fff4f4 94q,#fffbfb 95q,#fbfbff 96q,#f4f4ff 97q,#f2f2ff 98q,#f5f5ff 99q,#fbfbff 100q,#fffdfd 101q,#fff9f9 102q,#fff8f8 103q,#fff 106q,#fdfdff 108q,#fff 110q,#fff 263q"></i><i style="--g:#fff 0,#fff 46q,#fefeff 48q,#fff 50q,#fff8f8 53q,#fff8f8 54q,#fffcfc 55q,#fbfbff 56q,#ececff 58q,#ededff 59q,#f5f5ff 60q,#fffbfb 61q,#ffebeb 62q,#ffe2e2 63q,#ffe3e3 64q,#fee 65q,#fff 66q,#eef 67q,#e5e5ff 68q,#e6e6ff 69q,#f0f0ff 70q,#fdfdff 71q,#fff7f7 72q,#fff1f1 73q,#fff2f2 74q,#fffdfd 76q,#fafaff 78q,#fff 81q,#fffbfb 83q,#fffefe 85q,#fdfdff 86q,#f6f6ff 88q,#f7f7ff 89q,#fbfbff 90q,#fffcfc 91q,#fff5f5 92q,#fff1f1 93q,#fff3f3 94q,#fefeff 96q,#f6f6ff 97q,#f3f3ff 98q,#f4f4ff 99q,#fff 101q,#fff9f9 103q,#fff9f9 104q,#fff 106q,#fdfdff 108q,#fff 111q,#fff 263q"></i><i style="--g:#fff 0,#fff 46q,#fdfdff 48q,#fff 50q,#fff7f7 54q,#fdfdff 56q,#ededff 58q,#eaeaff 59q,#f0f0ff 60q,#fefeff 61q,#ffe3e3 63q,#ffe0e0 64q,#ffe8e8 65q,#fff9f9 66q,#f3f3ff 67q,#e7e7ff 68q,#e5e5ff 69q,#ececff 70q,#f8f8ff 71q,#fffafa 72q,#fff3f3 73q,#fff2f2 74q,#fffbfb 76q,#fefeff 77q,#fbfbff 78q,#fbfbff 79q,#fff 81q,#fffbfb 84q,#fff 86q,#f6f6ff 88q,#f6f6ff 89q,#f9f9ff 90q,#fff 91q,#fff7f7 92q,#fff2f2 93q,#fff1f1 94q,#fff6f6 95q,#fffdfd 96q,#f4f4ff 98q,#f3f3ff 99q,#fcfcff 101q,#fffdfd 102q,#fff9f9 103q,#fff9f9 104q,#fff 107q,#fdfdff 109q,#fff 111q,#fff 263q"></i><i style="--g:#fff 0,#fff 46q,#fdfdff 49q,#fff 51q,#fff8f8 53q,#fff6f6 54q,#fff8f8 55q,#fff 56q,#eef 58q,#e9e9ff 59q,#ececff 60q,#f8f8ff 61q,#fff5f5 62q,#ffe6e6 63q,#ffdfdf 64q,#ffe4e4 65q,#fff2f2 66q,#fafaff 67q,#ebebff 68q,#e5e5ff 69q,#e9e9ff 70q,#fff 72q,#fff6f6 73q,#fff3f3 74q,#fff4f4 75q,#fff 77q,#fbfbff 79q,#fefeff 81q,#fffbfb 84q,#fffcfc 85q,#fff 86q,#f7f7ff 88q,#f5f5ff 89q,#f7f7ff 90q,#fdfdff 91q,#fff9f9 92q,#fff3f3 93q,#fff0f0 94q,#fff3f3 95q,#fffafa 96q,#fbfbff 97q,#f5f5ff 98q,#f3f3ff 99q,#f5f5ff 100q,#fff 102q,#fffbfb 103q,#fff9f9 104q,#fff 107q,#fefeff 109q,#fff 111q,#fff 263q"></i><i style="--g:#fff 0,#fff 47q,#fdfdff 49q,#fff 51q,#fff6f6 54q,#fff6f6 55q,#fffbfb 56q,#fafaff 57q,#efefff 58q,#e8e8ff 59q,#e9e9ff 60q,#f2f2ff 61q,#fffbfb 62q,#ffeaea 63q,#ffe0e0 64q,#ffe0e0 65q,#ffebeb 66q,#fffdfd 67q,#f0f0ff 68q,#e6e6ff 69q,#e7e7ff 70q,#efefff 71q,#fbfbff 72q,#fff9f9 73q,#fff4f4 74q,#fff4f4 75q,#fffdfd 77q,#fdfdff 78q,#fbfbff 80q,#fff 82q,#fffafa 84q,#fffdfd 86q,#fcfcff 87q,#f5f5ff 89q,#f5f5ff 90q,#fafaff 91q,#fffcfc 92q,#fff5f5 93q,#fff0f0 94q,#fff1f1 95q,#fff 97q,#f7f7ff 98q,#f3f3ff 99q,#f4f4ff 100q,#fdfdff 102q,#fffafa 104q,#fff 108q,#fefeff 110q,#fff 111q,#fff 263q"></i><i style="--g:#fff 0,#fff 47q,#fdfdff 49q,#fff 51q,#fff5f5 54q,#fff5f5 55q,#fff9f9 56q,#fdfdff 57q,#e9e9ff 59q,#e6e6ff 60q,#ededff 61q,#fcfcff 62q,#ffe2e2 64q,#ffdede 65q,#ffe6e6 66q,#fff6f6 67q,#f6f6ff 68q,#e9e9ff 69q,#e6e6ff 70q,#ebebff 71q,#f6f6ff 72q,#fffdfd 73q,#fff6f6 74q,#fff4f4 75q,#fff 78q,#fcfcff 79q,#fbfbff 80q,#fff 82q,#fffafa 84q,#fffcfc 86q,#fefeff 87q,#f5f5ff 89q,#f4f4ff 90q,#f8f8ff 91q,#fff 92q,#fff1f1 94q,#fff0f0 95q,#fff4f4 96q,#fffcfc 97q,#fafaff 98q,#f4f4ff 99q,#f3f3ff 100q,#fffefe 103q,#fffbfb 104q,#fffafa 105q,#fff 108q,#fefeff 110q,#fff 111q,#fff 263q"></i><i style="--g:#fff 0,#fff 47q,#fdfdff 49q,#fdfdff 51q,#fffefe 52q,#fff5f5 54q,#fff4f4 55q,#fff6f6 56q,#fffefe 57q,#eaeaff 59q,#e5e5ff 60q,#e8e8ff 61q,#f6f6ff 62q,#fff6f6 63q,#ffe5e5 64q,#fdd 65q,#ffe1e1 66q,#fdfdff 68q,#ededff 69q,#e6e6ff 70q,#e9e9ff 71q,#fdfdff 73q,#fff8f8 74q,#fff5f5 75q,#fff6f6 76q,#fff 78q,#fbfbff 80q,#fcfcff 81q,#fff 82q,#fffafa 85q,#fffbfb 86q,#fff 87q,#f5f5ff 89q,#f3f3ff 90q,#f5f5ff 91q,#fcfcff 92q,#fff9f9 93q,#fff2f2 94q,#ffefef 95q,#fff2f2 96q,#fff9f9 97q,#fdfdff 98q,#f6f6ff 99q,#f3f3ff 100q,#f5f5ff 101q,#fff 103q,#fffafa 105q,#fff 108q,#fff 263q"></i><i style="--g:#fff 0,#fff 47q,#fcfcff 50q,#fff 52q,#fff3f3 55q,#fff4f4 56q,#fffafa 57q,#f9f9ff 58q,#ececff 59q,#e4e4ff 60q,#e5e5ff 61q,#efefff 62q,#fffdfd 63q,#ffeaea 64q,#ffdede 65q,#ffdede 66q,#ffe9e9 67q,#fffafa 68q,#f3f3ff 69q,#e8e8ff 70q,#e8e8ff 71q,#efefff 72q,#f9f9ff 73q,#fffcfc 74q,#fff6f6 75q,#fff6f6 76q,#fffdfd 78q,#fefeff 79q,#fcfcff 81q,#fffefe 83q,#fff9f9 85q,#fffafa 86q,#fffdfd 87q,#fbfbff 88q,#f3f3ff 90q,#f4f4ff 91q,#f9f9ff 92q,#fffcfc 93q,#fff4f4 94q,#ffefef 95q,#fff0f0 96q,#fff6f6 97q,#fff 98q,#f4f4ff 100q,#f4f4ff 101q,#fdfdff 103q,#fffdfd 104q,#fffbfb 106q,#fff 109q,#fff 263q"></i><i style="--g:#fff 0,#fff 47q,#fcfcff 50q,#fefeff 52q,#fffcfc 53q,#fff2f2 55q,#fff2f2 56q,#fff7f7 57q,#fdfdff 58q,#e5e5ff 60q,#e2e2ff 61q,#e9e9ff 62q,#fafaff 63q,#fff0f0 64q,#ffe1e1 65q,#ffdcdc 66q,#ffe3e3 67q,#fff3f3 68q,#f9f9ff 69q,#ececff 70q,#e8e8ff 71q,#ececff 72q,#fff 74q,#fff8f8 75q,#fff6f6 76q,#fff8f8 77q,#fff 79q,#fcfcff 81q,#fff 83q,#fff9f9 85q,#fff9f9 86q,#fffcfc 87q,#fdfdff 88q,#f3f3ff 90q,#f2f2ff 91q,#f6f6ff 92q,#fff 93q,#fff0f0 95q,#ffefef 96q,#fff3f3 97q,#fffbfb 98q,#fbfbff 99q,#f6f6ff 100q,#f4f4ff 101q,#f6f6ff 102q,#fff 104q,#fffbfb 106q,#fff 109q,#fff 263q"></i><i style="--g:#fff 0,#fff 47q,#fbfbff 50q,#fdfdff 52q,#fffdfd 53q,#fff2f2 55q,#fff0f0 56q,#fff3f3 57q,#fffdfd 58q,#f3f3ff 59q,#e6e6ff 60q,#e0e0ff 61q,#e4e4ff 62q,#f3f3ff 63q,#fff7f7 64q,#ffe5e5 65q,#ffdcdc 66q,#ffdfdf 67q,#ffecec 68q,#fff 69q,#f0f0ff 70q,#e9e9ff 71q,#eaeaff 72q,#fbfbff 74q,#fffbfb 75q,#fff7f7 76q,#fff7f7 77q,#fff 79q,#fcfcff 81q,#fff 83q,#fff8f8 86q,#fffafa 87q,#fff 88q,#f3f3ff 90q,#f1f1ff 91q,#f4f4ff 92q,#fbfbff 93q,#fffafa 94q,#fff2f2 95q,#ffefef 96q,#fff1f1 97q,#fff 99q,#f8f8ff 100q,#f5f5ff 101q,#f5f5ff 102q,#fdfdff 104q,#fffdfd 105q,#fffcfc 107q,#fff 110q,#fff 263q"></i><i style="--g:#fff 0,#fff 48q,#fbfbff 51q,#fcfcff 52q,#fff 53q,#ffefef 56q,#fff0f0 57q,#fff9f9 58q,#f8f8ff 59q,#e9e9ff 60q,#e0e0ff 61q,#e0e0ff 62q,#ececff 63q,#fff 64q,#ffebeb 65q,#fdd 66q,#ffdcdc 67q,#ffe6e6 68q,#fff7f7 69q,#f6f6ff 70q,#ececff 71q,#eaeaff 72q,#efefff 73q,#f8f8ff 74q,#fffefe 75q,#fff9f9 76q,#fff7f7 77q,#fffdfd 79q,#fefeff 80q,#fcfcff 81q,#fefeff 83q,#fff8f8 86q,#fff9f9 87q,#fffdfd 88q,#fbfbff 89q,#f1f1ff 91q,#f1f1ff 92q,#fffdfd 94q,#fff4f4 95q,#ffefef 96q,#ffefef 97q,#fffcfc 99q,#fafaff 100q,#f6f6ff 101q,#f5f5ff 102q,#fff 105q,#fffcfc 107q,#fff 110q,#fff 263q"></i><i style="--g:#fff 0,#fff 48q,#fafaff 51q,#fbfbff 52q,#fefeff 53q,#fffbfb 54q,#ffefef 56q,#fee 57q,#fff4f4 58q,#fdfdff 59q,#e1e1ff 61q,#ddf 62q,#e5e5ff 63q,#f7f7ff 64q,#fff2f2 65q,#ffe1e1 66q,#ffdbdb 67q,#ffe1e1 68q,#fcfcff 70q,#efefff 71q,#eaeaff 72q,#ededff 73q,#fdfdff 75q,#fff8f8 77q,#fff9f9 78q,#fff 80q,#fcfcff 81q,#fdfdff 83q,#fffefe 84q,#fff8f8 86q,#fff7f7 87q,#fdfdff 89q,#f1f1ff 91q,#f0f0ff 92q,#f4f4ff 93q,#fdfdff 94q,#fff0f0 96q,#fee 97q,#fff2f2 98q,#fff9f9 99q,#fdfdff 100q,#f7f7ff 101q,#f5f5ff 102q,#f7f7ff 103q,#fff 105q,#fffcfc 107q,#fff 110q,#fff 263q"></i><i style="--g:#fff 0,#fff 48q,#fafaff 52q,#fcfcff 53q,#fffdfd 54q,#ffefef 56q,#ffecec 57q,#fff0f0 58q,#fffcfc 59q,#f2f2ff 60q,#e3e3ff 61q,#dcdcff 62q,#e0e0ff 63q,#efefff 64q,#fffafa 65q,#ffe6e6 66q,#ffdcdc 67q,#fdd 68q,#ffeaea 69q,#fffbfb 70q,#f4f4ff 71q,#ececff 72q,#ececff 73q,#fafaff 75q,#fffdfd 76q,#fff9f9 77q,#fff9f9 78q,#fff 80q,#fcfcff 82q,#fff 84q,#fff8f8 86q,#fff7f7 87q,#fff9f9 88q,#fff 89q,#f2f2ff 91q,#efefff 92q,#f2f2ff 93q,#f9f9ff 94q,#fffbfb 95q,#fff2f2 96q,#fee 97q,#fff0f0 98q,#fff6f6 99q,#fff 100q,#f6f6ff 102q,#f6f6ff 103q,#fff 106q,#fffcfc 108q,#fff 111q,#fff 263q"></i><i style="--g:#fff 0,#fff 48q,#f9f9ff 52q,#fafaff 53q,#fff 54q,#fff0f0 56q,#ffebeb 57q,#ffecec 58q,#fff6f6 59q,#f8f8ff 60q,#e7e7ff 61q,#dcdcff 62q,#dbdbff 63q,#e7e7ff 64q,#fcfcff 65q,#ffeded 66q,#ffdede 67q,#ffdcdc 68q,#ffe4e4 69q,#fff4f4 70q,#fafaff 71q,#efefff 72q,#ececff 73q,#f0f0ff 74q,#fff 76q,#fffbfb 77q,#fff9f9 78q,#fffefe 80q,#fcfcff 82q,#fcfcff 83q,#fff 84q,#fff6f6 87q,#fff7f7 88q,#fffcfc 89q,#fbfbff 90q,#f3f3ff 91q,#efefff 92q,#efefff 93q,#f6f6ff 94q,#fff 95q,#fff5f5 96q,#ffefef 97q,#ffefef 98q,#fffbfb 100q,#fcfcff 101q,#f7f7ff 102q,#f6f6ff 103q,#fff 106q,#fffdfd 108q,#fff 111q,#fff 263q"></i><i style="--g:#fff 0,#fff 45q,#fffefe 47q,#fff 49q,#f8f8ff 52q,#f9f9ff 53q,#fdfdff 54q,#fffafa 55q,#ffeaea 57q,#ffe9e9 58q,#fff1f1 59q,#fff 60q,#ececff 61q,#ddf 62q,#d9d9ff 63q,#e1e1ff 64q,#f3f3ff 65q,#fff5f5 66q,#ffe3e3 67q,#ffdbdb 68q,#ffe0e0 69q,#fffefe 71q,#f3f3ff 72q,#ededff 73q,#efefff 74q,#fcfcff 76q,#fffcfc 77q,#fffafa 78q,#fffafa 79q,#fff 81q,#fcfcff 82q,#fdfdff 84q,#fffdfd 85q,#fff6f6 87q,#fff6f6 88q,#fdfdff 90q,#efefff 92q,#eef 93q,#f2f2ff 94q,#fbfbff 95q,#fff9f9 96q,#fff1f1 97q,#fee 98q,#fff1f1 99q,#fff 101q,#f9f9ff 102q,#f7f7ff 103q,#f7f7ff 104q,#fff 107q,#fffdfd 109q,#fff 111q,#fff 263q"></i><i style="--g:#fff 0,#fff 45q,#fffefe 47q,#fff 49q,#f8f8ff 52q,#f8f8ff 53q,#fbfbff 54q,#fffcfc 55q,#ffebeb 57q,#ffe7e7 58q,#ffecec 59q,#fff9f9 60q,#f2f2ff 61q,#e1e1ff 62q,#d7d7ff 63q,#dbdbff 64q,#ebebff 65q,#fffdfd 66q,#ffe9e9 67q,#fdd 68q,#fdd 69q,#ffe8e8 70q,#fff7f7 71q,#f8f8ff 72q,#f0f0ff 73q,#eef 74q,#fff 77q,#fffbfb 78q,#fffafa 79q,#fff 81q,#fbfbff 83q,#fff 85q,#fff6f6 87q,#fff4f4 88q,#fff7f7 89q,#fffefe 90q,#f0f0ff 92q,#ededff 93q,#efefff 94q,#f7f7ff 95q,#fffcfc 96q,#fff3f3 97q,#ffefef 98q,#fff0f0 99q,#fffcfc 101q,#fbfbff 102q,#f8f8ff 103q,#f7f7ff 104q,#fff 107q,#fffdfd 109q,#fff 112q,#fff 263q"></i><i style="--g:#fff 0,#fff 45q,#fffefe 47q,#fff 49q,#f7f7ff 53q,#f9f9ff 54q,#fff 55q,#ffecec 57q,#ffe6e6 58q,#ffe8e8 59q,#fff3f3 60q,#f9f9ff 61q,#e5e5ff 62q,#d8d8ff 63q,#d7d7ff 64q,#e3e3ff 65q,#f8f8ff 66q,#fff0f0 67q,#ffe0e0 68q,#ffdcdc 69q,#ffe3e3 70q,#fefeff 72q,#f3f3ff 73q,#efefff 74q,#f1f1ff 75q,#fdfdff 77q,#fffbfb 79q,#fff 81q,#fbfbff 83q,#fcfcff 84q,#fff 85q,#fff4f4 88q,#fff5f5 89q,#fffbfb 90q,#fbfbff 91q,#f2f2ff 92q,#ededff 93q,#ededff 94q,#f3f3ff 95q,#fdfdff 96q,#fff0f0 98q,#ffefef 99q,#fff3f3 100q,#fefeff 102q,#f9f9ff 103q,#f8f8ff 104q,#fff 108q,#fffdfd 110q,#fff 112q,#fff 263q"></i><i style="--g:#fff 0,#fff 45q,#fffdfd 48q,#fff 49q,#fefeff 50q,#f6f6ff 53q,#f7f7ff 54q,#fcfcff 55q,#fff9f9 56q,#ffe5e5 58q,#ffe4e4 59q,#ffecec 60q,#fffefe 61q,#dbdbff 63q,#d5d5ff 64q,#dcdcff 65q,#efefff 66q,#fff9f9 67q,#ffe6e6 68q,#fdd 69q,#ffe0e0 70q,#fffafa 72q,#f7f7ff 73q,#f1f1ff 74q,#f1f1ff 75q,#fbfbff 77q,#fffefe 78q,#fffbfb 79q,#fffcfc 80q,#fff 81q,#fbfbff 83q,#fbfbff 84q,#fdfdff 85q,#fffcfc 86q,#fff3f3 88q,#fff3f3 89q,#fff8f8 90q,#fff 91q,#f5f5ff 92q,#eef 93q,#ececff 94q,#f0f0ff 95q,#f9f9ff 96q,#fffafa 97q,#fff2f2 98q,#ffefef 99q,#fff1f1 100q,#fffdfd 102q,#f8f8ff 104q,#f8f8ff 105q,#fff 108q,#fffefe 110q,#fff 112q,#fff 263q"></i><i style="--g:#fff 0,#fff 45q,#fffdfd 48q,#fff 50q,#f5f5ff 53q,#f5f5ff 54q,#f9f9ff 55q,#fffcfc 56q,#ffe6e6 58q,#ffe1e1 59q,#ffe7e7 60q,#fff6f6 61q,#f3f3ff 62q,#dfdfff 63q,#d4d4ff 64q,#d7d7ff 65q,#e6e6ff 66q,#fcfcff 67q,#ffeded 68q,#ffe0e0 69q,#ffdede 70q,#ffe7e7 71q,#fff4f4 72q,#fcfcff 73q,#f4f4ff 74q,#f1f1ff 75q,#f4f4ff 76q,#fff 78q,#fffcfc 80q,#fefeff 82q,#fafaff 84q,#fffefe 86q,#fff3f3 88q,#fff2f2 89q,#fff5f5 90q,#fffcfc 91q,#f8f8ff 92q,#efefff 93q,#ebebff 94q,#ededff 95q,#fff 97q,#fff5f5 98q,#fff0f0 99q,#fff0f0 100q,#fffbfb 102q,#fdfdff 103q,#fafaff 104q,#f9f9ff 105q,#fff 108q,#fffefe 110q,#fff 112q,#fff 263q"></i><i style="--g:#fff 0,#fff 45q,#fffdfd 48q,#fff 50q,#f5f5ff 53q,#f4f4ff 54q,#f6f6ff 55q,#fff 56q,#ffe8e8 58q,#ffe0e0 59q,#ffe2e2 60q,#fee 61q,#fbfbff 62q,#e5e5ff 63q,#d6d6ff 64q,#d3d3ff 65q,#dedeff 66q,#f3f3ff 67q,#fff5f5 68q,#ffe4e4 69q,#ffdede 70q,#ffe3e3 71q,#fffdfd 73q,#f7f7ff 74q,#f2f2ff 75q,#f3f3ff 76q,#fdfdff 78q,#fffdfd 79q,#fffcfc 80q,#fff 82q,#fafaff 84q,#fbfbff 85q,#fff 86q,#fff4f4 88q,#fff1f1 89q,#fff2f2 90q,#fff9f9 91q,#fcfcff 92q,#f2f2ff 93q,#ebebff 94q,#ebebff 95q,#f1f1ff 96q,#fbfbff 97q,#fff9f9 98q,#fff2f2 99q,#fff0f0 100q,#fff2f2 101q,#fff 103q,#f9f9ff 105q,#fff 109q,#fffefe 111q,#fff 112q,#fff 263q"></i><i style="--g:#fff 0,#fff 46q,#fffdfd 49q,#fefeff 51q,#f2f2ff 54q,#f4f4ff 55q,#fafaff 56q,#fff8f8 57q,#ffe0e0 59q,#ffdede 60q,#ffe7e7 61q,#fffafa 62q,#ededff 63q,#dadaff 64q,#d2d2ff 65q,#d8d8ff 66q,#eaeaff 67q,#fffefe 68q,#ffeaea 69q,#ffe0e0 70q,#ffe1e1 71q,#ffeaea 72q,#fff7f7 73q,#fbfbff 74q,#f5f5ff 75q,#f3f3ff 76q,#fff 79q,#fffdfd 80q,#fff 82q,#fafaff 84q,#fafaff 85q,#fdfdff 86q,#fffbfb 87q,#fff1f1 89q,#fff0f0 90q,#fff5f5 91q,#fff 92q,#ededff 94q,#eaeaff 95q,#eef 96q,#f7f7ff 97q,#fffdfd 98q,#fff4f4 99q,#fff0f0 100q,#fff1f1 101q,#fffcfc 103q,#fdfdff 104q,#fafaff 105q,#fafaff 106q,#fff 109q,#fff 263q"></i><i style="--g:#fff 0,#fff 46q,#fffcfc 49q,#fff 51q,#f2f2ff 54q,#f1f1ff 55q,#f7f7ff 56q,#fffcfc 57q,#ffe1e1 59q,#ffdbdb 60q,#ffe1e1 61q,#fff1f1 62q,#f5f5ff 63q,#dfdfff 64q,#d2d2ff 65q,#d3d3ff 66q,#e1e1ff 67q,#f7f7ff 68q,#fff2f2 69q,#ffe4e4 70q,#ffe0e0 71q,#ffe6e6 72q,#fff 74q,#f7f7ff 75q,#f4f4ff 76q,#f6f6ff 77q,#fff 79q,#fffdfd 81q,#fff 82q,#fafaff 84q,#f9f9ff 85q,#fffdfd 87q,#fff1f1 89q,#ffefef 90q,#fff2f2 91q,#fffafa 92q,#f9f9ff 93q,#efefff 94q,#eaeaff 95q,#ebebff 96q,#f3f3ff 97q,#fdfdff 98q,#fff2f2 100q,#fff1f1 101q,#fff4f4 102q,#fff 104q,#fafaff 106q,#fff 110q,#fff 263q"></i><i style="--g:#fff 0,#fff 46q,#fffcfc 49q,#fffcfc 50q,#fff 51q,#fcfcff 52q,#f2f2ff 54q,#f0f0ff 55q,#f3f3ff 56q,#fdfdff 57q,#fff3f3 58q,#ffe4e4 59q,#ffdada 60q,#ffdbdb 61q,#ffe9e9 62q,#fff 63q,#e7e7ff 64q,#d5d5ff 65q,#d0d0ff 66q,#dadaff 67q,#ededff 68q,#fffafa 69q,#ffe9e9 70q,#ffe1e1 71q,#ffe4e4 72q,#fffafa 74q,#fbfbff 75q,#f6f6ff 76q,#f6f6ff 77q,#fff 80q,#fffdfd 81q,#fff 82q,#f8f8ff 85q,#fafaff 86q,#fff 87q,#fff2f2 89q,#fee 90q,#fff0f0 91q,#fdfdff 93q,#f2f2ff 94q,#ebebff 95q,#eaeaff 96q,#efefff 97q,#f8f8ff 98q,#fffbfb 99q,#fff4f4 100q,#fff1f1 101q,#fff3f3 102q,#fffdfd 104q,#fdfdff 105q,#fbfbff 107q,#fff 110q,#fff 263q"></i><i style="--g:#fff 0,#fff 46q,#fffcfc 49q,#fffdfd 51q,#fdfdff 52q,#eef 55q,#f0f0ff 56q,#f8f8ff 57q,#fff8f8 58q,#ffe7e7 59q,#ffdbdb 60q,#ffd7d7 61q,#ffe1e1 62q,#fff5f5 63q,#f0f0ff 64q,#dadaff 65q,#d0d0ff 66q,#d4d4ff 67q,#e5e5ff 68q,#fbfbff 69q,#fff0f0 70q,#ffe4e4 71q,#ffe3e3 72q,#ffeaea 73q,#fff 75q,#f8f8ff 76q,#f6f6ff 77q,#fff 80q,#fffdfd 81q,#fff 82q,#f8f8ff 85q,#f8f8ff 86q,#fcfcff 87q,#fffbfb 88q,#fee 90q,#ffeded 91q,#fff3f3 92q,#fffdfd 93q,#f6f6ff 94q,#ededff 95q,#e9e9ff 96q,#ececff 97q,#fff 99q,#fff7f7 100q,#fff2f2 101q,#fff2f2 102q,#fff 105q,#fbfbff 107q,#fff 110q,#fff 263q"></i><i style="--g:#fff 0,#fff 46q,#fffbfb 50q,#fff 52q,#ededff 55q,#ededff 56q,#f3f3ff 57q,#fffefe 58q,#fdd 60q,#ffd5d5 61q,#ffdada 62q,#ffebeb 63q,#fafaff 64q,#e1e1ff 65q,#d2d2ff 66q,#d1d1ff 67q,#ddf 68q,#f1f1ff 69q,#fff8f8 70q,#ffe9e9 71q,#ffe4e4 72q,#ffe8e8 73q,#fffbfb 75q,#fbfbff 76q,#f7f7ff 77q,#f8f8ff 78q,#fff 80q,#fffefe 81q,#fefeff 83q,#f8f8ff 85q,#f7f7ff 86q,#fffefe 88q,#ffefef 90q,#ffecec 91q,#ffefef 92q,#fff8f8 93q,#fafaff 94q,#f0f0ff 95q,#eaeaff 96q,#eaeaff 97q,#f0f0ff 98q,#fafaff 99q,#fffafa 100q,#fff4f4 101q,#fff2f2 102q,#fff4f4 103q,#fffdfd 105q,#fdfdff 106q,#fcfcff 108q,#fff 111q,#fff 263q"></i><i style="--g:#fff 0,#fff 47q,#fffafa 50q,#fffbfb 51q,#fffefe 52q,#fbfbff 53q,#ededff 55q,#ebebff 56q,#efefff 57q,#fafaff 58q,#fff2f2 59q,#ffe0e0 60q,#ffd4d4 61q,#ffd4d4 62q,#ffe2e2 63q,#fffafa 64q,#eaeaff 65q,#d6d6ff 66q,#cfcfff 67q,#d6d6ff 68q,#fefeff 70q,#ffefef 71q,#ffe6e6 72q,#ffe6e6 73q,#fff 76q,#f9f9ff 77q,#f8f8ff 78q,#fff 81q,#fffefe 82q,#fff 83q,#f8f8ff 85q,#f6f6ff 86q,#f8f8ff 87q,#fefeff 88q,#fff0f0 90q,#ffebeb 91q,#ffecec 92q,#fff3f3 93q,#fff 94q,#f3f3ff 95q,#ebebff 96q,#e9e9ff 97q,#ededff 98q,#fff 100q,#fff7f7 101q,#fff3f3 102q,#fff4f4 103q,#fff 106q,#fcfcff 108q,#fff 111q,#fff 263q"></i><i style="--g:#fff 0,#fff 47q,#fffafa 50q,#fffcfc 52q,#fdfdff 53q,#eef 55q,#e9e9ff 56q,#eaeaff 57q,#f4f4ff 58q,#fff9f9 59q,#ffe5e5 60q,#ffd6d6 61q,#ffd1d1 62q,#ffdada 63q,#ffefef 64q,#f4f4ff 65q,#ddf 66q,#d0d0ff 67q,#d2d2ff 68q,#e0e0ff 69q,#f5f5ff 70q,#fff6f6 71q,#ffeaea 72q,#ffe6e6 73q,#ffebeb 74q,#fffdfd 76q,#fbfbff 77q,#f9f9ff 78q,#fff 81q,#fffefe 82q,#fff 83q,#f6f6ff 86q,#f6f6ff 87q,#fbfbff 88q,#fffbfb 89q,#ffecec 91q,#ffeaea 92q,#ffefef 93q,#fffafa 94q,#f8f8ff 95q,#eef 96q,#e9e9ff 97q,#ebebff 98q,#fbfbff 100q,#fffafa 101q,#fff5f5 102q,#fff4f4 103q,#fffefe 106q,#fcfcff 108q,#fff 112q,#fff 263q"></i><i style="--g:#fff 0,#fff 47q,#fff9f9 51q,#fffafa 52q,#fff 53q,#e8e8ff 56q,#e7e7ff 57q,#eef 58q,#fefeff 59q,#ffd9d9 61q,#ffcfcf 62q,#ffd3d3 63q,#ffe4e4 64q,#fff 65q,#e5e5ff 66q,#d4d4ff 67q,#d0d0ff 68q,#d9d9ff 69q,#fffefe 71q,#ffefef 72q,#ffe8e8 73q,#ffeaea 74q,#fff9f9 76q,#fefeff 77q,#fafaff 78q,#fbfbff 79q,#fff 81q,#fffefe 82q,#fff 83q,#f5f5ff 86q,#f5f5ff 87q,#f8f8ff 88q,#fff 89q,#ffeded 91q,#ffe9e9 92q,#ffecec 93q,#fdfdff 95q,#f1f1ff 96q,#eaeaff 97q,#e9e9ff 98q,#efefff 99q,#f7f7ff 100q,#fffefe 101q,#fff7f7 102q,#fff4f4 103q,#fff5f5 104q,#fff 107q,#fcfcff 109q,#fff 112q,#fff 263q"></i><i style="--g:#fff 0,#fff 47q,#fff8f8 51q,#fff9f9 52q,#fffdfd 53q,#fafaff 54q,#e8e8ff 56q,#e4e4ff 57q,#e9e9ff 58q,#f6f6ff 59q,#fff3f3 60q,#ffdede 61q,#ffcfcf 62q,#ffcece 63q,#ffdada 64q,#fff3f3 65q,#f0f0ff 66q,#dadaff 67q,#d0d0ff 68q,#d5d5ff 69q,#e4e4ff 70q,#f8f8ff 71q,#fff5f5 72q,#ffebeb 73q,#ffeaea 74q,#ffefef 75q,#fffefe 77q,#fbfbff 79q,#fff 81q,#fffdfd 82q,#fdfdff 84q,#f5f5ff 86q,#f3f3ff 87q,#f6f6ff 88q,#fcfcff 89q,#fff8f8 90q,#ffefef 91q,#ffe9e9 92q,#ffe9e9 93q,#fff0f0 94q,#fffcfc 95q,#f6f6ff 96q,#ececff 97q,#e9e9ff 98q,#ececff 99q,#fdfdff 101q,#fff6f6 103q,#fff5f5 104q,#fff 107q,#fdfdff 109q,#fff 112q,#fff 263q"></i><i style="--g:#fff 0,#fff 48q,#fff8f8 51q,#fff8f8 52q,#fdfdff 54q,#e9e9ff 56q,#e3e3ff 57q,#e4e4ff 58q,#efefff 59q,#fffcfc 60q,#ffe5e5 61q,#ffd2d2 62q,#ffcaca 63q,#ffd2d2 64q,#ffe7e7 65q,#fbfbff 66q,#e2e2ff 67q,#d3d3ff 68q,#d2d2ff 69q,#ddf 70q,#efefff 71q,#fffcfc 72q,#fff0f0 73q,#ffebeb 74q,#ffeded 75q,#fffbfb 77q,#fefeff 78q,#fcfcff 79q,#fff 81q,#fffdfd 83q,#fff 84q,#f3f3ff 87q,#f4f4ff 88q,#f9f9ff 89q,#fffcfc 90q,#ffeaea 92q,#ffe7e7 93q,#ffecec 94q,#fff6f6 95q,#fbfbff 96q,#f0f0ff 97q,#eaeaff 98q,#eaeaff 99q,#f9f9ff 101q,#fffdfd 102q,#fff7f7 103q,#fff6f6 104q,#fff 108q,#fdfdff 110q,#fff 112q,#fff 263q"></i><i style="--g:#fff 0,#fff 44q,#fefeff 46q,#fff 48q,#fff6f6 52q,#fff8f8 53q,#fffefe 54q,#f7f7ff 55q,#e2e2ff 57q,#e0e0ff 58q,#e8e8ff 59q,#fafaff 60q,#ffeded 61q,#ffd7d7 62q,#ffcaca 63q,#fcc 64q,#ffdcdc 65q,#fff7f7 66q,#ececff 67q,#d8d8ff 68q,#d1d1ff 69q,#d8d8ff 70q,#fafaff 72q,#fff5f5 73q,#ffeded 74q,#ffeded 75q,#fff 78q,#fdfdff 80q,#fff 81q,#fffdfd 83q,#fff 84q,#f2f2ff 87q,#f2f2ff 88q,#f6f6ff 89q,#fff 90q,#ffebeb 92q,#ffe6e6 93q,#ffe8e8 94q,#fff1f1 95q,#fffefe 96q,#ececff 98q,#eaeaff 99q,#ededff 100q,#fdfdff 102q,#fff7f7 104q,#fff7f7 105q,#fff 108q,#fdfdff 110q,#fff 113q,#fff 263q"></i><i style="--g:#fff 0,#fff 44q,#fefeff 46q,#fff 48q,#fff6f6 52q,#fff6f6 53q,#fffbfb 54q,#fafaff 55q,#e3e3ff 57q,#ddf 58q,#e1e1ff 59q,#f1f1ff 60q,#fff6f6 61q,#fdd 62q,#fcc 63q,#ffc7c7 64q,#ffd3d3 65q,#ffebeb 66q,#f7f7ff 67q,#dfdfff 68q,#d3d3ff 69q,#d5d5ff 70q,#e1e1ff 71q,#f2f2ff 72q,#fffbfb 73q,#fff1f1 74q,#fee 75q,#fff1f1 76q,#fffcfc 78q,#fff 79q,#fefeff 80q,#fff 81q,#fffcfc 83q,#fffefe 84q,#fdfdff 85q,#f2f2ff 87q,#f0f0ff 88q,#f3f3ff 89q,#fafaff 90q,#fff9f9 91q,#fee 92q,#ffe7e7 93q,#ffe6e6 94q,#ffecec 95q,#fff8f8 96q,#f9f9ff 97q,#efefff 98q,#eaeaff 99q,#ececff 100q,#fafaff 102q,#fffdfd 103q,#fff8f8 104q,#fff7f7 105q,#fff 109q,#fefeff 111q,#fff 113q,#fff 263q"></i><i style="--g:#fff 0,#fff 44q,#fefeff 46q,#fff 49q,#fff5f5 52q,#fff4f4 53q,#fff8f8 54q,#fefeff 55q,#e5e5ff 57q,#dcdcff 58q,#dcdcff 59q,#e8e8ff 60q,#fefeff 61q,#ffd0d0 63q,#ffc5c5 64q,#ffcbcb 65q,#ffdfdf 66q,#fffbfb 67q,#e9e9ff 68q,#d8d8ff 69q,#d3d3ff 70q,#dcdcff 71q,#fcfcff 73q,#fff6f6 74q,#fff0f0 75q,#fff0f0 76q,#fff 79q,#fff 81q,#fffcfc 83q,#fff 85q,#f3f3ff 87q,#efefff 88q,#f0f0ff 89q,#f6f6ff 90q,#fffefe 91q,#ffe8e8 93q,#ffe5e5 94q,#ffe8e8 95q,#fff 97q,#f3f3ff 98q,#ececff 99q,#ebebff 100q,#efefff 101q,#fff 103q,#fff8f8 105q,#fffafa 107q,#fff 109q,#fefeff 111q,#fff 113q,#fff 263q"></i><i style="--g:#fff 0,#fff 44q,#fdfdff 47q,#fff 49q,#fff3f3 53q,#fff5f5 54q,#fffcfc 55q,#f6f6ff 56q,#dcdcff 58q,#d8d8ff 59q,#e0e0ff 60q,#f3f3ff 61q,#fff0f0 62q,#ffd7d7 63q,#ffc6c6 64q,#ffc5c5 65q,#ffd4d4 66q,#fee 67q,#f4f4ff 68q,#dedeff 69q,#d5d5ff 70q,#d8d8ff 71q,#f5f5ff 73q,#fffbfb 74q,#fff3f3 75q,#fff1f1 76q,#fffdfd 79q,#fff 80q,#fff 81q,#fffbfb 83q,#fffbfb 84q,#fff 85q,#efefff 88q,#eef 89q,#f2f2ff 90q,#fcfcff 91q,#fff6f6 92q,#ffebeb 93q,#ffe4e4 94q,#ffe5e5 95q,#ffeded 96q,#fff9f9 97q,#f8f8ff 98q,#efefff 99q,#ebebff 100q,#ededff 101q,#fbfbff 103q,#fffdfd 104q,#fff9f9 105q,#fff8f8 106q,#fff 110q,#fff 263q"></i><i style="--g:#fff 0,#fff 44q,#fdfdff 47q,#fff 49q,#fffdfd 50q,#fff2f2 53q,#fff2f2 54q,#fff8f8 55q,#fafaff 56q,#ddf 58q,#d5d5ff 59q,#d9d9ff 60q,#e9e9ff 61q,#fffbfb 62q,#ffdfdf 63q,#ffcaca 64q,#ffc3c3 65q,#fcc 66q,#ffe2e2 67q,#fff 68q,#e7e7ff 69q,#d9d9ff 70q,#d7d7ff 71q,#e0e0ff 72q,#fdfdff 74q,#fff7f7 75q,#fff2f2 76q,#fff3f3 77q,#fffefe 80q,#fff 81q,#fffbfb 83q,#fffbfb 84q,#fffdfd 85q,#fcfcff 86q,#efefff 88q,#ececff 89q,#efefff 90q,#f7f7ff 91q,#fffbfb 92q,#fee 93q,#ffe6e6 94q,#ffe3e3 95q,#ffe9e9 96q,#fdfdff 98q,#f2f2ff 99q,#ececff 100q,#ececff 101q,#f1f1ff 102q,#fff 104q,#fff9f9 106q,#fff9f9 107q,#fff 110q,#fff 263q"></i><i style="--g:#fff 0,#fff 44q,#fdfdff 47q,#fefeff 49q,#fffefe 50q,#fff1f1 53q,#fff0f0 54q,#fff4f4 55q,#fff 56q,#e0e0ff 58q,#d4d4ff 59q,#d3d3ff 60q,#dfdfff 61q,#f7f7ff 62q,#ffeaea 63q,#ffd0d0 64q,#ffc3c3 65q,#ffc5c5 66q,#ffd7d7 67q,#fff1f1 68q,#f2f2ff 69q,#dfdfff 70q,#d7d7ff 71q,#dcdcff 72q,#f7f7ff 74q,#fffbfb 75q,#fff5f5 76q,#fff4f4 77q,#fffdfd 80q,#fffefe 81q,#fffafa 84q,#fffbfb 85q,#fff 86q,#f0f0ff 88q,#ececff 89q,#ececff 90q,#f2f2ff 91q,#fefeff 92q,#ffe8e8 94q,#ffe3e3 95q,#ffe5e5 96q,#fee 97q,#fffbfb 98q,#f7f7ff 99q,#efefff 100q,#ececff 101q,#efefff 102q,#fcfcff 104q,#fffdfd 105q,#fffafa 107q,#fff 111q,#fff 263q"></i><i style="--g:#fff 0,#fff 45q,#fcfcff 48q,#fff 50q,#fee 54q,#fff0f0 55q,#fff9f9 56q,#f6f6ff 57q,#d5d5ff 59q,#cfcfff 60q,#d6d6ff 61q,#ebebff 62q,#fff6f6 63q,#ffd9d9 64q,#ffc6c6 65q,#ffc1c1 66q,#ffcdcd 67q,#fdfdff 69q,#e7e7ff 70q,#dbdbff 71q,#dbdbff 72q,#e4e4ff 73q,#fefeff 75q,#fff8f8 76q,#fff5f5 77q,#fffdfd 81q,#fff9f9 84q,#fff9f9 85q,#fffdfd 86q,#fafaff 87q,#ececff 89q,#eaeaff 90q,#eef 91q,#f8f8ff 92q,#fff8f8 93q,#ffecec 94q,#ffe4e4 95q,#ffe3e3 96q,#ffeaea 97q,#fff5f5 98q,#fcfcff 99q,#f2f2ff 100q,#eef 101q,#eef 102q,#fff 105q,#fffafa 107q,#fff 111q,#fff 263q"></i><i style="--g:#fff 0,#fff 45q,#fcfcff 48q,#fefeff 50q,#fffdfd 51q,#ffeded 54q,#ffeded 55q,#fff4f4 56q,#fcfcff 57q,#d8d8ff 59q,#cdcdff 60q,#cfcfff 61q,#dfdfff 62q,#fbfbff 63q,#ffe4e4 64q,#fcc 65q,#ffc0c0 66q,#ffc6c6 67q,#ffdada 68q,#fff4f4 69q,#f0f0ff 70q,#e0e0ff 71q,#dbdbff 72q,#e0e0ff 73q,#f8f8ff 75q,#fffcfc 76q,#fff7f7 77q,#fff7f7 78q,#fffdfd 81q,#fff8f8 84q,#fff8f8 85q,#fffbfb 86q,#fdfdff 87q,#ededff 89q,#e8e8ff 90q,#eaeaff 91q,#f3f3ff 92q,#fff 93q,#fff0f0 94q,#ffe6e6 95q,#ffe2e2 96q,#ffe6e6 97q,#fffcfc 99q,#f7f7ff 100q,#f0f0ff 101q,#eef 102q,#f1f1ff 103q,#fcfcff 105q,#fffefe 106q,#fffbfb 108q,#fff 111q,#fff 263q"></i><i style="--g:#fff 0,#fff 45q,#fbfbff 49q,#fff 51q,#ffecec 54q,#ffeaea 55q,#ffefef 56q,#fffbfb 57q,#f0f0ff 58q,#dcdcff 59q,#cdcdff 60q,#c9c9ff 61q,#d5d5ff 62q,#ededff 63q,#fff1f1 64q,#ffd4d4 65q,#ffc2c2 66q,#ffc1c1 67q,#ffd0d0 68q,#ffe8e8 69q,#fbfbff 70q,#e7e7ff 71q,#ddf 72q,#dfdfff 73q,#e8e8ff 74q,#fefeff 76q,#fffafa 77q,#fff8f8 78q,#fffdfd 81q,#fff7f7 85q,#fff9f9 86q,#fff 87q,#eef 89q,#e8e8ff 90q,#e7e7ff 91q,#eef 92q,#fafaff 93q,#fff6f6 94q,#ffe9e9 95q,#ffe2e2 96q,#ffe3e3 97q,#ffebeb 98q,#fff6f6 99q,#fcfcff 100q,#f3f3ff 101q,#efefff 102q,#f0f0ff 103q,#f4f4ff 104q,#fff 106q,#fffbfb 108q,#fff 112q,#fff 263q"></i><i style="--g:#fff 0,#fff 45q,#fbfbff 49q,#fcfcff 50q,#fff 51q,#ffe8e8 55q,#ffeaea 56q,#fff4f4 57q,#f8f8ff 58q,#cfcfff 60q,#c6c6ff 61q,#ccf 62q,#e0e0ff 63q,#fff 64q,#ffdfdf 65q,#ffc8c8 66q,#ffc0c0 67q,#ffc8c8 68q,#fdd 69q,#fff7f7 70q,#f0f0ff 71q,#e2e2ff 72q,#dfdfff 73q,#e5e5ff 74q,#fafaff 76q,#fffdfd 77q,#fff9f9 78q,#fffcfc 82q,#fff6f6 85q,#fff7f7 86q,#fffbfb 87q,#fafaff 88q,#e9e9ff 90q,#e5e5ff 91q,#e9e9ff 92q,#f3f3ff 93q,#fffcfc 94q,#fee 95q,#ffe4e4 96q,#ffe2e2 97q,#ffe7e7 98q,#fffdfd 100q,#f1f1ff 102q,#f0f0ff 103q,#fdfdff 106q,#fffefe 107q,#fffcfc 109q,#fff 112q,#fff 263q"></i><i style="--g:#fff 0,#fff 45q,#fafaff 49q,#fdfdff 51q,#fffcfc 52q,#ffe7e7 55q,#ffe6e6 56q,#fee 57q,#fff 58q,#d4d4ff 60q,#c5c5ff 61q,#c5c5ff 62q,#d4d4ff 63q,#f0f0ff 64q,#ffeded 65q,#ffd0d0 66q,#ffc1c1 67q,#ffc3c3 68q,#ffd3d3 69q,#ffebeb 70q,#fafaff 71q,#e9e9ff 72q,#e1e1ff 73q,#e3e3ff 74q,#fefeff 77q,#fffcfc 78q,#fffafa 79q,#fffcfc 82q,#fff5f5 85q,#fff5f5 86q,#fff8f8 87q,#fefeff 88q,#eaeaff 90q,#e4e4ff 91q,#e5e5ff 92q,#eef 93q,#fbfbff 94q,#fff4f4 95q,#ffe7e7 96q,#ffe2e2 97q,#ffe4e4 98q,#fff8f8 100q,#fcfcff 101q,#f4f4ff 102q,#f1f1ff 103q,#f2f2ff 104q,#fff 107q,#fffcfc 109q,#fff 113q,#fff 263q"></i><i style="--g:#fff 0,#fff 46q,#fafaff 50q,#fbfbff 51q,#fff 52q,#ffe6e6 55q,#ffe3e3 56q,#ffe8e8 57q,#fff6f6 58q,#f2f2ff 59q,#dadaff 60q,#c7c7ff 61q,#c0c0ff 62q,#c9c9ff 63q,#e2e2ff 64q,#fffbfb 65q,#ffdbdb 66q,#ffc6c6 67q,#ffc0c0 68q,#ffcbcb 69q,#fff9f9 71q,#f1f1ff 72q,#e5e5ff 73q,#e3e3ff 74q,#e9e9ff 75q,#fafaff 77q,#fff 78q,#fffcfc 79q,#fffdfd 82q,#fff3f3 86q,#fff6f6 87q,#fffcfc 88q,#f8f8ff 89q,#e5e5ff 91q,#e3e3ff 92q,#e8e8ff 93q,#f4f4ff 94q,#fffafa 95q,#ffecec 96q,#ffe3e3 97q,#ffe2e2 98q,#ffe8e8 99q,#fffefe 101q,#f8f8ff 102q,#f3f3ff 103q,#f2f2ff 104q,#fff 108q,#fffdfd 110q,#fff 113q,#fff 263q"></i><i style="--g:#fff 0,#fff 46q,#f9f9ff 50q,#fafaff 51q,#fdfdff 52q,#fffafa 53q,#ffe7e7 55q,#ffe1e1 56q,#ffe2e2 57q,#ffeded 58q,#fcfcff 59q,#cbcbff 61q,#bebeff 62q,#c1c1ff 63q,#d4d4ff 64q,#f3f3ff 65q,#ffe9e9 66q,#ffcece 67q,#ffc1c1 68q,#ffc5c5 69q,#ffd6d6 70q,#fee 71q,#fafaff 72q,#ebebff 73q,#e5e5ff 74q,#e8e8ff 75q,#fdfdff 78q,#fffdfd 79q,#fffdfd 82q,#fffcfc 83q,#fff2f2 86q,#fff3f3 87q,#fff9f9 88q,#fcfcff 89q,#e6e6ff 91q,#e1e1ff 92q,#e4e4ff 93q,#eef 94q,#fdfdff 95q,#ffe6e6 97q,#ffe2e2 98q,#ffe5e5 99q,#fff8f8 101q,#fcfcff 102q,#f5f5ff 103q,#f3f3ff 104q,#f4f4ff 105q,#fff 108q,#fffdfd 110q,#fff 113q,#fff 263q"></i><i style="--g:#fff 0,#fff 46q,#f8f8ff 50q,#f8f8ff 51q,#fffdfd 53q,#ffe0e0 56q,#fdd 57q,#ffe5e5 58q,#fff8f8 59q,#ececff 60q,#d2d2ff 61q,#bfbfff 62q,#bbf 63q,#c8c8ff 64q,#e4e4ff 65q,#fff8f8 66q,#ffd9d9 67q,#ffc6c6 68q,#ffc3c3 69q,#ffcece 70q,#fffafa 72q,#f2f2ff 73q,#e9e9ff 74q,#e8e8ff 75q,#fbfbff 78q,#fff 79q,#fffcfc 83q,#fff1f1 86q,#fff1f1 87q,#fff5f5 88q,#fffefe 89q,#e9e9ff 91q,#e1e1ff 92q,#e1e1ff 93q,#e8e8ff 94q,#f6f6ff 95q,#fff9f9 96q,#ffebeb 97q,#ffe3e3 98q,#ffe3e3 99q,#ffe9e9 100q,#fffefe 102q,#f8f8ff 103q,#f4f4ff 104q,#f4f4ff 105q,#fff 109q,#fffdfd 111q,#fff 114q,#fff 263q"></i><i style="--g:#fff 0,#fff 46q,#f7f7ff 51q,#f9f9ff 52q,#fff 53q,#fff6f6 54q,#ffe0e0 56q,#ffdada 57q,#ffdede 58q,#ffeeee 59q,#f7f7ff 60q,#dbdbff 61q,#c3c3ff 62q,#b8b8ff 63q,#bebeff 64q,#d5d5ff 65q,#f6f6ff 66q,#ffe6e6 67q,#ffcdcd 68q,#ffc3c3 69q,#ffc9c9 70q,#ffdada 71q,#fff0f0 72q,#fafaff 73q,#eef 74q,#e9e9ff 75q,#ececff 76q,#fdfdff 79q,#fff 80q,#fff 82q,#fffdfd 83q,#fff1f1 86q,#ffefef 87q,#fff1f1 88q,#fff9f9 89q,#f9f9ff 90q,#e2e2ff 92q,#dedeff 93q,#e3e3ff 94q,#eeeeff 95q,#fff 96q,#fff1f1 97q,#ffe6e6 98q,#ffe3e3 99q,#ffe7e7 100q,#fff9f9 102q,#fcfcff 103q,#f7f7ff 104q,#f5f5ff 105q,#f6f6ff 106q,#fff 109q,#fffefe 111q,#fff 114q,#fff 263q"></i><i style="--g:#fff 0,#fff 47q,#f6f6ff 51q,#f7f7ff 52q,#fbfbff 53q,#fffafa 54q,#ffe1e1 56q,#ffd8d8 57q,#ffd8d8 58q,#ffe4e4 59q,#fffbfb 60q,#e6e6ff 61q,#cacaff 62q,#b8b8ff 63q,#b7b7ff 64q,#c7c7ff 65q,#e6e6ff 66q,#fff5f5 67q,#ffd8d8 68q,#ffc7c7 69q,#ffc6c6 70q,#ffd2d2 71q,#fffbfb 73q,#f4f4ff 74q,#ececff 75q,#ececff 76q,#fafaff 79q,#fdfdff 80q,#fff 82q,#fff 83q,#fee 87q,#fee 88q,#fff4f4 89q,#fff 90q,#e5e5ff 92q,#dedeff 93q,#dfdfff 94q,#e8e8ff 95q,#f7f7ff 96q,#fff7f7 97q,#ffebeb 98q,#ffe4e4 99q,#ffe5e5 100q,#ffebeb 101q,#fffefe 103q,#f6f6ff 105q,#f6f6ff 106q,#fff 110q,#fffefe 112q,#fff 114q,#fff 263q"></i><i style="--g:#fff 0,#fff 43q,#fffefe 45q,#fff 47q,#f5f5ff 51q,#f5f5ff 52q,#f8f8ff 53q,#fff 54q,#ffd7d7 57q,#ffd3d3 58q,#ffdada 59q,#fee 60q,#f2f2ff 61q,#d3d3ff 62q,#bbf 63q,#b3b3ff 64q,#bcbcff 65q,#d6d6ff 66q,#f8f8ff 67q,#ffe5e5 68q,#ffcece 69q,#ffc6c6 70q,#ffcdcd 71q,#fff2f2 73q,#fbfbff 74q,#f1f1ff 75q,#ededff 76q,#fbfbff 80q,#fff 83q,#fffdfd 84q,#ffeded 87q,#ffecec 88q,#fff0f0 89q,#fffafa 90q,#f6f6ff 91q,#e9e9ff 92q,#dfdfff 93q,#dcdcff 94q,#e2e2ff 95q,#fff 97q,#fff0f0 98q,#ffe7e7 99q,#ffe4e4 100q,#ffe8e8 101q,#fffafa 103q,#fdfdff 104q,#f8f8ff 105q,#f7f7ff 106q,#fff 110q,#fff 263q"></i><i style="--g:#fff 0,#fff 43q,#fffefe 45q,#fff 47q,#fefeff 48q,#f3f3ff 52q,#f5f5ff 53q,#fcfcff 54q,#fff6f6 55q,#ffd8d8 57q,#ffd0d0 58q,#ffd2d2 59q,#ffe2e2 60q,#fffefe 61q,#c2c2ff 63q,#b2b2ff 64q,#b4b4ff 65q,#c8c8ff 66q,#e8e8ff 67q,#fff4f4 68q,#ffd8d8 69q,#ffcaca 70q,#ffcaca 71q,#ffd7d7 72q,#fffbfb 74q,#f6f6ff 75q,#f0f0ff 76q,#f0f0ff 77q,#fafaff 80q,#fff 84q,#ffeded 87q,#ffeaea 88q,#ffecec 89q,#fdfdff 91q,#e1e1ff 93q,#dbdbff 94q,#dedeff 95q,#e8e8ff 96q,#f7f7ff 97q,#fff7f7 98q,#ffebeb 99q,#ffe6e6 100q,#ffe7e7 101q,#ffeded 102q,#fffefe 104q,#f8f8ff 106q,#f8f8ff 107q,#fff 111q,#fff 263q"></i><i style="--g:#fff 0,#fff 43q,#fffefe 46q,#fff 48q,#f2f2ff 52q,#f2f2ff 53q,#f7f7ff 54q,#fffbfb 55q,#ffdbdb 57q,#ffcece 58q,#fcc 59q,#ffd7d7 60q,#fff0f0 61q,#ededff 62q,#ccf 63q,#b5b5ff 64q,#afafff 65q,#bbf 66q,#d8d8ff 67q,#fafaff 68q,#ffe5e5 69q,#ffd0d0 70q,#ffcbcb 71q,#ffd2d2 72q,#fff3f3 74q,#fcfcff 75q,#f4f4ff 76q,#f1f1ff 77q,#f9f9ff 80q,#fdfdff 84q,#fffcfc 85q,#ffe9e9 88q,#ffe9e9 89q,#ffefef 90q,#fffbfb 91q,#f4f4ff 92q,#e5e5ff 93q,#dcdcff 94q,#dbdbff 95q,#e2e2ff 96q,#fff 98q,#fff0f0 99q,#ffe8e8 100q,#ffe6e6 101q,#ffebeb 102q,#fffafa 104q,#fdfdff 105q,#fafaff 106q,#f8f8ff 107q,#fff 111q,#fff 263q"></i><i style="--g:#fff 0,#fff 43q,#fffdfd 46q,#fff 48q,#fdfdff 49q,#f1f1ff 52q,#f0f0ff 53q,#f3f3ff 54q,#fdfdff 55q,#fff1f1 56q,#ffcfcf 58q,#ffc7c7 59q,#ffcdcd 60q,#ffe2e2 61q,#fdfdff 62q,#d9d9ff 63q,#bcbcff 64q,#aeaeff 65q,#b3b3ff 66q,#c9c9ff 67q,#e9e9ff 68q,#fff3f3 69q,#ffdada 70q,#ffcece 71q,#ffcfcf 72q,#ffdbdb 73q,#fffbfb 75q,#f8f8ff 76q,#f3f3ff 77q,#f3f3ff 78q,#f9f9ff 81q,#fbfbff 84q,#fff 85q,#ffe9e9 88q,#ffe6e6 89q,#ffeaea 90q,#fff5f5 91q,#fafaff 92q,#ebebff 93q,#dedeff 94q,#d9d9ff 95q,#ddf 96q,#e9e9ff 97q,#f8f8ff 98q,#fff7f7 99q,#ffecec 100q,#ffe8e8 101q,#ffe9e9 102q,#ffefef 103q,#fffdfd 105q,#fafaff 107q,#f9f9ff 108q,#fff 112q,#fff 263q"></i><i style="--g:#fff 0,#fff 43q,#fffdfd 46q,#fffefe 48q,#fefeff 49q,#eef 53q,#efefff 54q,#f7f7ff 55q,#fff8f8 56q,#ffd1d1 58q,#ffc5c5 59q,#ffc5c5 60q,#ffd4d4 61q,#fff1f1 62q,#e8e8ff 63q,#c6c6ff 64q,#b1b1ff 65q,#adadff 66q,#bcbcff 67q,#d9d9ff 68q,#fbfbff 69q,#ffe6e6 70q,#ffd4d4 71q,#ffd0d0 72q,#ffd7d7 73q,#fff4f4 75q,#fefeff 76q,#f7f7ff 77q,#f4f4ff 78q,#fafaff 84q,#fdfdff 85q,#fffafa 86q,#ffeaea 88q,#ffe5e5 89q,#ffe6e6 90q,#fee 91q,#fffcfc 92q,#f1f1ff 93q,#e2e2ff 94q,#dadaff 95q,#dadaff 96q,#e2e2ff 97q,#fff 99q,#fff1f1 100q,#ffeaea 101q,#ffe9e9 102q,#fff 106q,#fbfbff 107q,#fafaff 108q,#fff 112q,#fff 263q"></i><i style="--g:#fff 0,#fff 43q,#fffdfd 47q,#fff 49q,#ececff 53q,#ececff 54q,#f2f2ff 55q,#fff 56q,#ffd6d6 58q,#ffc5c5 59q,#ffbfbf 60q,#ffc8c8 61q,#ffe1e1 62q,#f9f9ff 63q,#d4d4ff 64q,#b7b7ff 65q,#ababff 66q,#b3b3ff 67q,#cbcbff 68q,#ebebff 69q,#fff4f4 70q,#fdd 71q,#ffd3d3 72q,#ffd5d5 73q,#ffe0e0 74q,#fffbfb 76q,#fbfbff 77q,#f7f7ff 78q,#f6f6ff 79q,#f7f7ff 83q,#f8f8ff 84q,#fffdfd 86q,#ffebeb 88q,#ffe4e4 89q,#ffe3e3 90q,#ffe8e8 91q,#fff5f5 92q,#f9f9ff 93q,#e8e8ff 94q,#dcdcff 95q,#d8d8ff 96q,#ddf 97q,#f8f8ff 99q,#fff7f7 100q,#fee 101q,#ffeaea 102q,#ffecec 103q,#fffdfd 106q,#fbfbff 108q,#fbfbff 109q,#fff 113q,#fff 263q"></i><i style="--g:#fff 0,#fff 43q,#fffcfc 47q,#fffefe 49q,#fdfdff 50q,#ececff 53q,#e9e9ff 54q,#ececff 55q,#f8f8ff 56q,#fff3f3 57q,#ffc7c7 59q,#fbb 60q,#ffbebe 61q,#ffd2d2 62q,#fff3f3 63q,#e4e4ff 64q,#c2c2ff 65q,#aeaeff 66q,#adadff 67q,#bebeff 68q,#fbfbff 70q,#ffe8e8 71q,#ffd8d8 72q,#ffd5d5 73q,#ffdcdc 74q,#fff5f5 76q,#fff 77q,#f9f9ff 78q,#f7f7ff 79q,#f6f6ff 83q,#f8f8ff 85q,#fdfdff 86q,#fff8f8 87q,#ffe5e5 89q,#ffe1e1 90q,#ffe3e3 91q,#ffeeee 92q,#fffdfd 93q,#e0e0ff 95q,#d9d9ff 96q,#dadaff 97q,#e3e3ff 98q,#fff 100q,#fff3f3 101q,#ffecec 102q,#ffecec 103q,#fff 107q,#fbfbff 109q,#fff 113q,#fff 263q"></i><i style="--g:#fff 0,#fff 43q,#fffcfc 48q,#fff 50q,#e7e7ff 54q,#e8e8ff 55q,#f0f0ff 56q,#fffcfc 57q,#fcc 59q,#fbb 60q,#ffb6b6 61q,#ffc4c4 62q,#ffe1e1 63q,#f6f6ff 64q,#d0d0ff 65q,#b5b5ff 66q,#aaf 67q,#b4b4ff 68q,#ccf 69q,#ececff 70q,#fff5f5 71q,#ffe1e1 72q,#ffd8d8 73q,#ffdada 74q,#fffafa 77q,#fdfdff 78q,#f9f9ff 79q,#f4f4ff 84q,#f6f6ff 85q,#fafaff 86q,#fffcfc 87q,#ffe7e7 89q,#ffe0e0 90q,#ffdfdf 91q,#ffe7e7 92q,#fff5f5 93q,#f7f7ff 94q,#e6e6ff 95q,#dbdbff 96q,#d8d8ff 97q,#dedeff 98q,#f9f9ff 100q,#fff8f8 101q,#fff0f0 102q,#ffeded 103q,#fee 104q,#fffdfd 107q,#fefeff 108q,#fcfcff 110q,#fff 113q,#fff 263q"></i><i style="--g:#fff 0,#fff 44q,#fffbfb 48q,#fffcfc 49q,#fff 50q,#fbfbff 51q,#e5e5ff 54q,#e3e3ff 55q,#e9e9ff 56q,#f9f9ff 57q,#fee 58q,#ffbdbd 60q,#ffb2b2 61q,#ffb8b8 62q,#ffd0d0 63q,#fff4f4 64q,#e1e1ff 65q,#bfbfff 66q,#adadff 67q,#aeaeff 68q,#c0c0ff 69q,#fbfbff 71q,#ffebeb 72q,#fdd 73q,#ffdbdb 74q,#ffe1e1 75q,#fff6f6 77q,#fffefe 78q,#f9f9ff 80q,#f3f3ff 84q,#f3f3ff 85q,#f7f7ff 86q,#fff 87q,#ffe9e9 89q,#ffe0e0 90q,#fdd 91q,#ffe1e1 92q,#ffeded 93q,#fff 94q,#ededff 95q,#dfdfff 96q,#d8d8ff 97q,#dadaff 98q,#e4e4ff 99q,#fff 101q,#fff4f4 102q,#ffefef 103q,#fee 104q,#fff 108q,#fcfcff 110q,#fff 114q,#fff 263q"></i><i style="--g:#fff 0,#fff 44q,#fffafa 48q,#fffdfd 50q,#fdfdff 51q,#e5e5ff 54q,#e0e0ff 55q,#e3e3ff 56q,#efefff 57q,#fff9f9 58q,#ffc2c2 60q,#ffb0b0 61q,#ffafaf 62q,#ffc0c0 63q,#ffe1e1 64q,#f4f4ff 65q,#ceceff 66q,#b4b4ff 67q,#acacff 68q,#b7b7ff 69q,#ededff 71q,#fff7f7 72q,#ffe5e5 73q,#ffdede 74q,#ffe0e0 75q,#fffafa 78q,#fff 79q,#fbfbff 80q,#f2f2ff 85q,#f4f4ff 86q,#fafaff 87q,#fffafa 88q,#ffe2e2 90q,#ffdbdb 91q,#ffdcdc 92q,#ffe5e5 93q,#fff5f5 94q,#f6f6ff 95q,#e5e5ff 96q,#dadaff 97q,#d9d9ff 98q,#dfdfff 99q,#f8f8ff 101q,#fffafa 102q,#fff2f2 103q,#ffefef 104q,#fff1f1 105q,#fffdfd 108q,#fff 109q,#fdfdff 111q,#fff 114q,#fff 263q"></i><i style="--g:#fff 0,#fff 44q,#fffafa 49q,#fffbfb 50q,#fff 51q,#f8f8ff 52q,#dedeff 55q,#ddf 56q,#e6e6ff 57q,#fafaff 58q,#ffe8e8 59q,#ffcaca 60q,#ffb2b2 61q,#faa 62q,#ffb2b2 63q,#ffcece 64q,#fff5f5 65q,#dfdfff 66q,#bfbfff 67q,#aeaeff 68q,#b1b1ff 69q,#c3c3ff 70q,#fafaff 72q,#fee 73q,#ffe3e3 74q,#ffe1e1 75q,#ffe6e6 76q,#fffcfc 79q,#fefeff 80q,#f0f0ff 85q,#f1f1ff 86q,#f6f6ff 87q,#fff 88q,#ffe5e5 90q,#ffdbdb 91q,#ffd8d8 92q,#ffdede 93q,#ffecec 94q,#fff 95q,#ececff 96q,#dfdfff 97q,#d9d9ff 98q,#dcdcff 99q,#e5e5ff 100q,#fff 102q,#fff6f6 103q,#fff2f2 104q,#fff1f1 105q,#fff 109q,#fdfdff 111q,#fff 114q,#fff 263q"></i><i style="--g:#fff 0,#fff 44q,#fff9f9 49q,#fff9f9 50q,#fffcfc 51q,#fbfbff 52q,#ddf 55q,#d9d9ff 56q,#dedeff 57q,#eef 58q,#fff5f5 59q,#ffb8b8 61q,#ffa7a7 62q,#ffa8a8 63q,#ffbcbc 64q,#ffe0e0 65q,#f3f3ff 66q,#cdcdff 67q,#b5b5ff 68q,#afafff 69q,#bbf 70q,#ededff 72q,#fff9f9 73q,#ffeaea 74q,#ffe3e3 75q,#ffe5e5 76q,#fff9f9 79q,#fffefe 80q,#fdfdff 81q,#efefff 85q,#eef 86q,#f2f2ff 87q,#fafaff 88q,#fff8f8 89q,#fdd 91q,#ffd7d7 92q,#ffd9d9 93q,#ffe4e4 94q,#fff5f5 95q,#f5f5ff 96q,#e5e5ff 97q,#dbdbff 98q,#dadaff 99q,#e0e0ff 100q,#f8f8ff 102q,#fffbfb 103q,#fff5f5 104q,#fff2f2 105q,#fff3f3 106q,#fff 110q,#fdfdff 112q,#fff 115q,#fff 263q"></i><i style="--g:#fff 0,#fff 45q,#fff8f8 50q,#fffafa 51q,#fff 52q,#ddf 55q,#d5d5ff 56q,#d6d6ff 57q,#e3e3ff 58q,#fcfcff 59q,#ffe2e2 60q,#ffc1c1 61q,#ffa9a9 62q,#ffa2a2 63q,#ffaeae 64q,#fcc 65q,#fff6f6 66q,#dfdfff 67q,#c0c0ff 68q,#b2b2ff 69q,#b5b5ff 70q,#c7c7ff 71q,#f9f9ff 73q,#fff2f2 74q,#ffe8e8 75q,#ffe6e6 76q,#fffbfb 80q,#fff 81q,#ececff 86q,#eef 87q,#f5f5ff 88q,#fffefe 89q,#ffe0e0 91q,#ffd7d7 92q,#ffd5d5 93q,#fdd 94q,#ffecec 95q,#fff 96q,#ececff 97q,#dfdfff 98q,#dadaff 99q,#ddf 100q,#e6e6ff 101q,#fdfdff 103q,#fff4f4 105q,#fff4f4 106q,#fff 110q,#fefeff 113q,#fff 115q,#fff 263q"></i><i style="--g:#fff 0,#fff 45q,#fff7f7 50q,#fff8f8 51q,#fffdfd 52q,#f9f9ff 53q,#d4d4ff 56q,#d0d0ff 57q,#d8d8ff 58q,#ededff 59q,#fff1f1 60q,#ffafaf 62q,#ffa1a1 63q,#ffa3a3 64q,#ffbaba 65q,#ffe0e0 66q,#f3f3ff 67q,#cfcfff 68q,#b8b8ff 69q,#b4b4ff 70q,#bfbfff 71q,#ededff 73q,#fffcfc 74q,#fee 75q,#ffe9e9 76q,#ffeaea 77q,#fffdfd 81q,#fefeff 82q,#ebebff 86q,#ebebff 87q,#efefff 88q,#fafaff 89q,#fff5f5 90q,#ffd8d8 92q,#ffd3d3 93q,#ffd6d6 94q,#ffe3e3 95q,#fff5f5 96q,#f5f5ff 97q,#e5e5ff 98q,#ddf 99q,#dcdcff 100q,#e2e2ff 101q,#f8f8ff 103q,#fffdfd 104q,#fff7f7 105q,#fff5f5 106q,#fff 111q,#fff 263q"></i><i style="--g:#fff 0,#fff 45q,#fff6f6 50q,#fff6f6 51q,#fff9f9 52q,#fdfdff 53q,#d3d3ff 56q,#ccf 57q,#cfcfff 58q,#e0e0ff 59q,#fdfdff 60q,#ffb9b9 62q,#ffa2a2 63q,#ff9f9f 64q,#faa 65q,#ffcbcb 66q,#fff5f5 67q,#e0e0ff 68q,#c3c3ff 69q,#b6b6ff 70q,#bbf 71q,#ccf 72q,#f8f8ff 74q,#fff6f6 75q,#ffeded 76q,#ffebeb 77q,#fffefe 82q,#fcfcff 83q,#ebebff 86q,#e8e8ff 87q,#ebebff 88q,#fffcfc 90q,#ffdcdc 92q,#ffd3d3 93q,#ffd2d2 94q,#ffdbdb 95q,#ffebeb 96q,#fff 97q,#ededff 98q,#e1e1ff 99q,#ddf 100q,#e0e0ff 101q,#e8e8ff 102q,#fdfdff 104q,#fffafa 105q,#fff7f7 106q,#fff6f6 107q,#fff 111q,#fff 263q"></i><i style="--g:#fff 0,#fff 46q,#fff4f4 51q,#fff6f6 52q,#fffdfd 53q,#f5f5ff 54q,#d5d5ff 56q,#c9c9ff 57q,#c7c7ff 58q,#d2d2ff 59q,#ececff 60q,#ffeded 61q,#ffc6c6 62q,#ffa7a7 63q,#ff9d9d 64q,#ffa0a0 65q,#ffb8b8 66q,#ffdfdf 67q,#f5f5ff 68q,#d2d2ff 69q,#bdbdff 70q,#babaff 71q,#c5c5ff 72q,#eef 74q,#fff 75q,#fff2f2 76q,#ffeded 77q,#fff0f0 79q,#fff 83q,#ebebff 86q,#e6e6ff 87q,#e7e7ff 88q,#ededff 89q,#fafaff 90q,#fff3f3 91q,#ffe2e2 92q,#ffd4d4 93q,#ffd0d0 94q,#ffd4d4 95q,#ffe2e2 96q,#fff5f5 97q,#f6f6ff 98q,#e7e7ff 99q,#dfdfff 100q,#dfdfff 101q,#e5e5ff 102q,#f8f8ff 104q,#fff 105q,#fff9f9 106q,#fff7f7 107q,#fff 112q,#fff 263q"></i><i style="--g:#fff 0,#fff 42q,#fefeff 43q,#fff 46q,#fff3f3 51q,#fff3f3 52q,#fff9f9 53q,#fafaff 54q,#c8c8ff 57q,#c1c1ff 58q,#c7c7ff 59q,#dcdcff 60q,#fff 61q,#ffb1b1 63q,#ff9e9e 64q,#ff9c9c 65q,#ffa7a7 66q,#ffcaca 67q,#fff4f4 68q,#e3e3ff 69q,#c8c8ff 70q,#bdbdff 71q,#c1c1ff 72q,#d0d0ff 73q,#f7f7ff 75q,#fff9f9 76q,#fff1f1 77q,#ffefef 78q,#fff3f3 80q,#fffdfd 83q,#fbfbff 84q,#ececff 86q,#e6e6ff 87q,#e3e3ff 88q,#e8e8ff 89q,#f2f2ff 90q,#fffbfb 91q,#ffd8d8 93q,#ffcfcf 94q,#ffd0d0 95q,#ffdada 96q,#ffebeb 97q,#fff 98q,#efefff 99q,#e3e3ff 100q,#e0e0ff 101q,#e3e3ff 102q,#eaeaff 103q,#fcfcff 105q,#fffcfc 106q,#fff9f9 107q,#fff8f8 108q,#fff 112q,#fff 263q"></i><i style="--g:#fff 0,#fff 42q,#fefeff 44q,#fff 47q,#fff1f1 51q,#fff1f1 52q,#fff4f4 53q,#fff 54q,#f0f0ff 55q,#cacaff 57q,#bdbdff 58q,#bdbdff 59q,#ccf 60q,#ebebff 61q,#ffeaea 62q,#ffc0c0 63q,#ffa2a2 64q,#f99 65q,#ff9f9f 66q,#ffb6b6 67q,#ffdede 68q,#f7f7ff 69q,#d6d6ff 70q,#c4c4ff 71q,#c1c1ff 72q,#cbcbff 73q,#eef 75q,#fefeff 76q,#fff6f6 77q,#fff1f1 78q,#fff0f0 79q,#fff7f7 82q,#fff 84q,#e6e6ff 87q,#e1e1ff 88q,#e3e3ff 89q,#ebebff 90q,#fafaff 91q,#fff1f1 92q,#ffdede 93q,#ffd1d1 94q,#ffcdcd 95q,#ffd3d3 96q,#ffe1e1 97q,#fff4f4 98q,#f8f8ff 99q,#eaeaff 100q,#e2e2ff 101q,#e2e2ff 102q,#e7e7ff 103q,#fff 106q,#fff9f9 108q,#fff 113q,#fff 263q"></i><i style="--g:#fff 0,#fff 41q,#fdfdff 44q,#fff 47q,#ffeeee 52q,#fff0f0 53q,#fff8f8 54q,#f7f7ff 55q,#ceceff 57q,#bbf 58q,#b5b5ff 59q,#bebeff 60q,#d8d8ff 61q,#fff 62q,#ffd3d3 63q,#ffacac 64q,#ff9b9b 65q,#f99 66q,#ffa6a6 67q,#ffc9c9 68q,#fff2f2 69q,#e7e7ff 70q,#ceceff 71q,#c4c4ff 72q,#c8c8ff 73q,#d5d5ff 74q,#f6f6ff 76q,#fffcfc 77q,#fff5f5 78q,#fff1f1 80q,#fff5f5 82q,#fffdfd 84q,#fafaff 85q,#e7e7ff 87q,#e0e0ff 88q,#dfdfff 89q,#e4e4ff 90q,#f1f1ff 91q,#fffafa 92q,#ffe6e6 93q,#ffd6d6 94q,#ffcdcd 95q,#ffcece 96q,#ffd9d9 97q,#fffdfd 99q,#f1f1ff 100q,#e7e7ff 101q,#e3e3ff 102q,#e6e6ff 103q,#fbfbff 106q,#fffefe 107q,#fffafa 109q,#fff 113q,#fff 263q"></i><i style="--g:#fff 0,#fff 41q,#fdfdff 45q,#fff 47q,#fffdfd 48q,#ffeded 52q,#ffeded 53q,#fff2f2 54q,#fff 55q,#ebebff 56q,#bebeff 58q,#b0b0ff 59q,#b2b2ff 60q,#c5c5ff 61q,#e9e9ff 62q,#ffe8e8 63q,#ffbcbc 64q,#ffa0a0 65q,#f99 66q,#ff9e9e 67q,#ffb6b6 68q,#fdd 69q,#fafaff 70q,#dcdcff 71q,#cbcbff 72q,#c8c8ff 73q,#d1d1ff 74q,#fcfcff 77q,#fff9f9 78q,#fff4f4 79q,#fff2f2 81q,#fff5f5 83q,#fdfdff 85q,#e0e0ff 88q,#dcdcff 89q,#dedeff 90q,#e9e9ff 91q,#fafaff 92q,#ffefef 93q,#ffdcdc 94q,#ffcfcf 95q,#fcc 96q,#ffd2d2 97q,#fff3f3 99q,#fafaff 100q,#ededff 101q,#e6e6ff 102q,#e6e6ff 103q,#fefeff 107q,#fffbfb 109q,#fffbfb 110q,#fff 114q,#fff 263q"></i><i style="--g:#fff 0,#fff 41q,#fdfdff 45q,#fff 48q,#ffebeb 52q,#ffe9e9 53q,#ffeded 54q,#fff7f7 55q,#f4f4ff 56q,#c2c2ff 58q,#afafff 59q,#aaf 60q,#b5b5ff 61q,#d3d3ff 62q,#fff 63q,#ffd0d0 64q,#faa 65q,#f99 66q,#f99 67q,#ffa6a6 68q,#ffefef 70q,#ececff 71q,#d5d5ff 72q,#ccf 73q,#cfcfff 74q,#f6f6ff 77q,#fffefe 78q,#fff7f7 79q,#fff2f2 81q,#fff3f3 83q,#fff6f6 84q,#fffdfd 85q,#f8f8ff 86q,#e2e2ff 88q,#dadaff 89q,#d9d9ff 90q,#e1e1ff 91q,#f0f0ff 92q,#fffafa 93q,#ffe5e5 94q,#ffd4d4 95q,#fcc 96q,#ffcece 97q,#ffd8d8 98q,#fffbfb 100q,#f4f4ff 101q,#eaeaff 102q,#e7e7ff 103q,#e9e9ff 104q,#fbfbff 107q,#fff 108q,#fffcfc 110q,#fff 114q,#fff 263q"></i><i style="--g:#fff 0,#fff 41q,#fcfcff 46q,#fff 48q,#fffcfc 49q,#ffe7e7 53q,#ffe7e7 54q,#fff0f0 55q,#fefeff 56q,#c9c9ff 58q,#b1b1ff 59q,#a4a4ff 60q,#a7a7ff 61q,#bfbfff 62q,#e6e6ff 63q,#ffe8e8 64q,#fbb 65q,#ff9f9f 66q,#f99 67q,#ff9e9e 68q,#ffb6b6 69q,#fff 71q,#e2e2ff 72q,#d3d3ff 73q,#d0d0ff 74q,#d7d7ff 75q,#fbfbff 78q,#fffbfb 79q,#fff3f3 81q,#fff1f1 83q,#fff3f3 84q,#fff9f9 85q,#fdfdff 86q,#e5e5ff 88q,#dadaff 89q,#d6d6ff 90q,#dadaff 91q,#e6e6ff 92q,#f9f9ff 93q,#ffefef 94q,#ffdbdb 95q,#ffcece 96q,#fcc 97q,#ffd2d2 98q,#fff2f2 100q,#fcfcff 101q,#f0f0ff 102q,#eaeaff 103q,#e9e9ff 104q,#fdfdff 108q,#fffefe 109q,#fffcfc 111q,#fff 115q,#fff 263q"></i><i style="--g:#fff 0,#fff 41q,#fcfcff 46q,#fffefe 49q,#fff9f9 50q,#ffe5e5 53q,#ffe3e3 54q,#ffe8e8 55q,#fff6f6 56q,#f0f0ff 57q,#b6b6ff 59q,#a3a3ff 60q,#a0a0ff 61q,#acacff 62q,#ceceff 63q,#fdfdff 64q,#ffd0d0 65q,#ffa8a8 66q,#ff9a9a 67q,#ff9b9b 68q,#ffa7a7 69q,#ffeded 71q,#f2f2ff 72q,#ddf 73q,#d4d4ff 74q,#d6d6ff 75q,#f6f6ff 78q,#fff 79q,#fff4f4 81q,#fff0f0 83q,#fff1f1 84q,#fff5f5 85q,#fffdfd 86q,#f6f6ff 87q,#dcdcff 89q,#d4d4ff 90q,#d4d4ff 91q,#ddf 92q,#eef 93q,#fffafa 94q,#ffe4e4 95q,#ffd3d3 96q,#fcc 97q,#ffcece 98q,#ffd9d9 99q,#fff9f9 101q,#f7f7ff 102q,#eef 103q,#ebebff 104q,#ededff 105q,#fff 109q,#fffdfd 111q,#fff 115q,#fff 263q"></i><i style="--g:#fff 0,#fff 41q,#fbfbff 47q,#fff 49q,#fffbfb 50q,#ffe4e4 53q,#ffdfdf 54q,#ffe1e1 55q,#ffecec 56q,#fcfcff 57q,#a4a4ff 60q,#9c9cff 61q,#a0a0ff 62q,#b8b8ff 63q,#e3e3ff 64q,#ffe9e9 65q,#fbb 66q,#ff9f9f 67q,#f99 68q,#ffa0a0 69q,#ffb7b7 70q,#fffcfc 72q,#e9e9ff 73q,#dbdbff 74q,#d8d8ff 75q,#ddf 76q,#fbfbff 79q,#fffcfc 80q,#fff2f2 82q,#ffefef 84q,#fff1f1 85q,#fff8f8 86q,#fbfbff 87q,#dfdfff 89q,#d4d4ff 90q,#d0d0ff 91q,#d5d5ff 92q,#e3e3ff 93q,#f8f8ff 94q,#ffefef 95q,#ffdbdb 96q,#ffcfcf 97q,#fcc 98q,#ffd3d3 99q,#ffe0e0 100q,#fff 102q,#f4f4ff 103q,#eef 104q,#ededff 105q,#fdfdff 109q,#fff 110q,#fffdfd 112q,#fff 115q,#fff 263q"></i><i style="--g:#fff 0,#fff 42q,#fbfbff 47q,#fdfdff 49q,#fffdfd 50q,#fff6f6 51q,#fdd 54q,#ffdbdb 55q,#ffe2e2 56q,#fff5f5 57q,#ececff 58q,#aaf 60q,#9b9bff 61q,#99f 62q,#a4a4ff 63q,#c9c9ff 64q,#fafaff 65q,#ffd2d2 66q,#faa 67q,#ff9c9c 68q,#ff9c9c 69q,#faa 70q,#ffeaea 72q,#f7f7ff 73q,#e4e4ff 74q,#dcdcff 75q,#ddf 76q,#fff 80q,#fff3f3 82q,#ffeded 84q,#fee 85q,#fff3f3 86q,#fffdfd 87q,#f4f4ff 88q,#d6d6ff 90q,#ceceff 91q,#cfcfff 92q,#d9d9ff 93q,#ececff 94q,#fffbfb 95q,#ffe5e5 96q,#ffd4d4 97q,#ffcdcd 98q,#ffcfcf 99q,#ffd9d9 100q,#fff7f7 102q,#fafaff 103q,#f2f2ff 104q,#efefff 105q,#f0f0ff 106q,#fff 110q,#fffdfd 113q,#fff 115q,#fff 263q"></i><i style="--g:#fff 0,#fff 42q,#fafaff 48q,#fbfbff 49q,#fff 50q,#fff9f9 51q,#ffdbdb 54q,#ffd6d6 55q,#ffd9d9 56q,#ffe8e8 57q,#fbfbff 58q,#b4b4ff 60q,#9c9cff 61q,#9696ff 62q,#99f 63q,#b0b0ff 64q,#dedeff 65q,#ffecec 66q,#ffbebe 67q,#ffa2a2 68q,#ff9c9c 69q,#ffa2a2 70q,#ffbaba 71q,#fff8f8 73q,#efefff 74q,#e2e2ff 75q,#dfdfff 76q,#e3e3ff 77q,#fbfbff 80q,#fffcfc 81q,#fff0f0 83q,#ffebeb 85q,#fee 86q,#fff7f7 87q,#fafaff 88q,#dadaff 90q,#ceceff 91q,#cacaff 92q,#d1d1ff 93q,#e0e0ff 94q,#f6f6ff 95q,#fff0f0 96q,#ffdcdc 97q,#ffd0d0 98q,#ffcece 99q,#ffd4d4 100q,#ffe1e1 101q,#fffdfd 103q,#f7f7ff 104q,#f2f2ff 105q,#f1f1ff 106q,#fff 111q,#fffefe 113q,#fff 115q,#fff 263q"></i><i style="--g:#fff 0,#fff 42q,#f9f9ff 48q,#fdfdff 50q,#fffbfb 51q,#ffd2d2 55q,#ffd1d1 56q,#ffdcdc 57q,#fff3f3 58q,#e9e9ff 59q,#c2c2ff 60q,#a1a1ff 61q,#9595ff 62q,#9494ff 63q,#9f9fff 64q,#c3c3ff 65q,#f6f6ff 66q,#ffd6d6 67q,#ffafaf 68q,#ff9f9f 69q,#ffa0a0 70q,#ffaeae 71q,#ffe8e8 73q,#fcfcff 74q,#ebebff 75q,#e3e3ff 76q,#e3e3ff 77q,#e8e8ff 78q,#fff 81q,#fff1f1 83q,#ffe9e9 85q,#ffeaea 86q,#fff1f1 87q,#fffcfc 88q,#f1f1ff 89q,#d0d0ff 91q,#c8c8ff 92q,#cacaff 93q,#d6d6ff 94q,#fffdfd 96q,#ffe7e7 97q,#ffd6d6 98q,#ffcfcf 99q,#ffd1d1 100q,#ffdbdb 101q,#fff6f6 103q,#fdfdff 104q,#f6f6ff 105q,#f3f3ff 106q,#f3f3ff 107q,#fcfcff 110q,#fff 112q,#fff 263q"></i><i style="--g:#fff 0,#fff 43q,#f9f9ff 49q,#fbfbff 50q,#fff 51q,#fff5f5 52q,#ffd0d0 55q,#ffcaca 56q,#ffd0d0 57q,#ffe3e3 58q,#fbfbff 59q,#aaf 61q,#9797ff 62q,#9191ff 63q,#9595ff 64q,#aaf 65q,#d9d9ff 66q,#fff1f1 67q,#ffc4c4 68q,#ffa7a7 69q,#ffa0a0 70q,#ffa7a7 71q,#ffbdbd 72q,#fff5f5 74q,#f5f5ff 75q,#e9e9ff 76q,#e5e5ff 77q,#ededff 79q,#fcfcff 81q,#fffbfb 82q,#ffeded 84q,#ffe7e7 86q,#ffebeb 87q,#fff5f5 88q,#f9f9ff 89q,#d5d5ff 91q,#c9c9ff 92q,#c5c5ff 93q,#ccf 94q,#ddf 95q,#f4f4ff 96q,#fff2f2 97q,#ffdfdf 98q,#ffd3d3 99q,#ffd1d1 100q,#ffd7d7 101q,#ffe2e2 102q,#fffbfb 104q,#fafaff 105q,#f6f6ff 106q,#f4f4ff 107q,#fff 112q,#fff 263q"></i><i style="--g:#fff 0,#fff 43q,#f7f7ff 49q,#f8f8ff 50q,#fdfdff 51q,#fff9f9 52q,#ffeded 53q,#ffcfcf 55q,#ffc5c5 56q,#ffc6c6 57q,#ffd3d3 58q,#fff0f0 59q,#e7e7ff 60q,#bbf 61q,#9b9bff 62q,#9090ff 63q,#9090ff 64q,#9b9bff 65q,#bdbdff 66q,#f0f0ff 67q,#ffdcdc 68q,#ffb7b7 69q,#ffa4a4 70q,#ffa4a4 71q,#ffb4b4 72q,#ffe7e7 74q,#fffefe 75q,#f1f1ff 76q,#e9e9ff 77q,#e8e8ff 78q,#f2f2ff 80q,#fffefe 82q,#fee 84q,#ffe4e4 86q,#ffe6e6 87q,#fee 88q,#fffcfc 89q,#efefff 90q,#dcdcff 91q,#ccf 92q,#c3c3ff 93q,#c5c5ff 94q,#d2d2ff 95q,#e7e7ff 96q,#fff 97q,#ffeaea 98q,#ffdada 99q,#ffd3d3 100q,#ffd5d5 101q,#fdd 102q,#fff 105q,#f9f9ff 106q,#f6f6ff 107q,#f6f6ff 108q,#fff 113q,#fff 263q"></i><i style="--g:#fff 0,#fff 44q,#f6f6ff 49q,#f6f6ff 50q,#f9f9ff 51q,#fffdfd 52q,#fff1f1 53q,#ffd1d1 55q,#ffc3c3 56q,#ffbdbd 57q,#ffc5c5 58q,#ffdcdc 59q,#fcfcff 60q,#a3a3ff 62q,#9292ff 63q,#8d8dff 64q,#9292ff 65q,#a4a4ff 66q,#d3d3ff 67q,#fff7f7 68q,#fcc 69q,#ffafaf 70q,#ffa6a6 71q,#ffaeae 72q,#ffc2c2 73q,#fff2f2 75q,#fafaff 76q,#efefff 77q,#ebebff 78q,#f0f0ff 80q,#fdfdff 82q,#fff9f9 83q,#ffe8e8 85q,#ffe3e3 86q,#ffe2e2 87q,#ffe7e7 88q,#fff3f3 89q,#f9f9ff 90q,#d1d1ff 92q,#c4c4ff 93q,#c1c1ff 94q,#c9c9ff 95q,#dadaff 96q,#f1f1ff 97q,#fff6f6 98q,#ffe3e3 99q,#ffd8d8 100q,#ffd5d5 101q,#ffdada 102q,#fff9f9 105q,#fdfdff 106q,#f9f9ff 107q,#f7f7ff 108q,#fff 113q,#fff 263q"></i><i style="--g:#fff 0,#fff 44q,#f5f5ff 50q,#f6f6ff 51q,#fcfcff 52q,#fff7f7 53q,#ffc2c2 56q,#ffb7b7 57q,#ffb8b8 58q,#ffcaca 59q,#ffebeb 60q,#e6e6ff 61q,#b5b5ff 62q,#9797ff 63q,#8c8cff 64q,#8c8cff 65q,#9797ff 66q,#b7b7ff 67q,#eaeaff 68q,#ffe4e4 69q,#ffc0c0 70q,#ffaeae 71q,#ffadad 72q,#fbb 73q,#fffbfb 76q,#f6f6ff 77q,#eef 78q,#ececff 79q,#f3f3ff 81q,#fafaff 82q,#fffcfc 83q,#ffeaea 85q,#ffdede 87q,#ffe1e1 88q,#ffeaea 89q,#fffbfb 90q,#eef 91q,#d8d8ff 92q,#c7c7ff 93q,#bfbfff 94q,#c2c2ff 95q,#cfcfff 96q,#fbfbff 98q,#fee 99q,#ffdfdf 100q,#ffd8d8 101q,#ffd9d9 102q,#ffe0e0 103q,#fffdfd 106q,#fcfcff 107q,#f9f9ff 109q,#fff 114q,#fff 263q"></i><i style="--g:#fff 0,#fff 40q,#fffefe 42q,#fff 45q,#f3f3ff 50q,#f4f4ff 51q,#f8f8ff 52q,#fffcfc 53q,#ffeded 54q,#ffc4c4 56q,#ffb4b4 57q,#ffaeae 58q,#ffb8b8 59q,#ffd4d4 60q,#fff 61q,#ccf 62q,#a0a0ff 63q,#8f8fff 64q,#8a8aff 65q,#8f8fff 66q,#a0a0ff 67q,#fff 69q,#ffd5d5 70q,#ffbaba 71q,#ffb1b1 72q,#ffb7b7 73q,#ffc8c8 74q,#fff1f1 76q,#fdfdff 77q,#f3f3ff 78q,#eeeeff 79q,#eef 80q,#f7f7ff 82q,#fff 83q,#ffe3e3 86q,#ffdcdc 87q,#ffdbdb 88q,#ffe2e2 89q,#fff0f0 90q,#f9f9ff 91q,#cdcdff 93q,#c0c0ff 94q,#bdbdff 95q,#c6c6ff 96q,#d7d7ff 97q,#eef 98q,#fffafa 99q,#ffe8e8 100q,#fdd 101q,#ffdada 102q,#ffdede 103q,#fff8f8 106q,#fff 107q,#fafaff 109q,#fff 114q,#fff 263q"></i><i style="--g:#fff 0,#fff 39q,#fffefe 42q,#fff 45q,#f1f1ff 51q,#f4f4ff 52q,#fcfcff 53q,#fff3f3 54q,#ffb3b3 57q,#ffa7a7 58q,#faa 59q,#ffbebe 60q,#ffe5e5 61q,#e7e7ff 62q,#b3b3ff 63q,#9595ff 64q,#8a8aff 65q,#8a8aff 66q,#9595ff 67q,#b2b2ff 68q,#e3e3ff 69q,#ffeded 70q,#ffcbcb 71q,#ffb9b9 72q,#ffb7b7 73q,#ffc2c2 74q,#fff9f9 77q,#f9f9ff 78q,#f2f2ff 79q,#efefff 80q,#f4f4ff 82q,#fbfbff 83q,#fffafa 84q,#ffe5e5 86q,#ffdcdc 87q,#ffd7d7 88q,#ffdbdb 89q,#ffe6e6 90q,#fff9f9 91q,#eef 92q,#d6d6ff 93q,#c4c4ff 94q,#bbf 95q,#bfbfff 96q,#ccf 97q,#f7f7ff 99q,#fff2f2 100q,#ffe4e4 101q,#fdd 102q,#ffdede 103q,#ffe3e3 104q,#fffbfb 107q,#fff 108q,#fcfcff 109q,#fbfbff 110q,#fff 114q,#fff 263q"></i><i style="--g:#fff 0,#fff 15q,#fffefe 19q,#fff 38q,#fffdfd 42q,#fff 46q,#efefff 51q,#f0f0ff 52q,#f6f6ff 53q,#fffbfb 54q,#ffe7e7 55q,#ffb5b5 57q,#ffa4a4 58q,#ffa0a0 59q,#faa 60q,#ffcaca 61q,#fffafa 62q,#9f9fff 64q,#8e8eff 65q,#88f 66q,#8e8eff 67q,#9e9eff 68q,#c7c7ff 69q,#f7f7ff 70q,#ffdfdf 71q,#ffc6c6 72q,#fbb 73q,#ffc0c0 74q,#ffcece 75q,#fff1f1 77q,#fff 78q,#f6f6ff 79q,#f1f1ff 80q,#f0f0ff 81q,#f2f2ff 82q,#f7f7ff 83q,#fff 84q,#ffdcdc 87q,#ffd5d5 88q,#ffd4d4 89q,#fdd 90q,#ffeded 91q,#fafaff 92q,#ccf 94q,#bebeff 95q,#bbf 96q,#c3c3ff 97q,#d5d5ff 98q,#fff 100q,#ffeded 101q,#ffe3e3 102q,#ffe0e0 103q,#ffe2e2 104q,#fff8f8 107q,#fffdfd 108q,#fdfdff 109q,#fcfcff 111q,#fff 115q,#fff 263q"></i><i style="--g:#fff 0,#fff 15q,#fffdfd 21q,#fff 36q,#fffdfd 43q,#fff 46q,#fafaff 48q,#ededff 51q,#ececff 52q,#f0f0ff 53q,#fbfbff 54q,#fff0f0 55q,#fbb 57q,#ffa3a3 58q,#ff9c9c 59q,#ff9e9e 60q,#ffb1b1 61q,#fdd 62q,#ebebff 63q,#b3b3ff 64q,#9494ff 65q,#8a8aff 66q,#9494ff 68q,#aeaeff 69q,#ddf 70q,#fff6f6 71q,#ffd6d6 72q,#ffc5c5 73q,#ffc2c2 74q,#ffcaca 75q,#fff8f8 78q,#fafaff 79q,#f3f3ff 80q,#f0f0ff 81q,#f0f0ff 82q,#f4f4ff 83q,#fbfbff 84q,#fff8f8 85q,#ffdede 87q,#ffd4d4 88q,#ffd0d0 89q,#ffd4d4 90q,#ffe1e1 91q,#fff6f6 92q,#eef 93q,#d6d6ff 94q,#c3c3ff 95q,#bbf 96q,#bdbdff 97q,#cacaff 98q,#f3f3ff 100q,#fff7f7 101q,#ffeaea 102q,#ffe3e3 103q,#ffe3e3 104q,#fff 109q,#fcfcff 111q,#fff 115q,#fff 263q"></i><i style="--g:#fff 0,#fffcfc 43q,#fff 47q,#e9e9ff 52q,#eaeaff 53q,#f3f3ff 54q,#fffafa 55q,#ffe1e1 56q,#ffa6a6 58q,#f99 59q,#ff9797 60q,#ff9f9f 61q,#ffbfbf 62q,#fff3f3 63q,#d1d1ff 64q,#a0a0ff 65q,#8e8eff 66q,#88f 67q,#8d8dff 68q,#9d9dff 69q,#c3c3ff 70q,#efefff 71q,#ffeaea 72q,#ffd2d2 73q,#ffc8c8 74q,#ffcaca 75q,#ffd5d5 76q,#fff 79q,#f7f7ff 80q,#f1f1ff 81q,#efefff 82q,#f1f1ff 83q,#fffdfd 85q,#ffd5d5 88q,#ffcdcd 89q,#fcc 90q,#ffd6d6 91q,#ffe9e9 92q,#fdfdff 93q,#ccf 95q,#bdbdff 96q,#bbf 97q,#c2c2ff 98q,#d3d3ff 99q,#fbfbff 101q,#fff3f3 102q,#ffe9e9 103q,#ffe5e5 104q,#ffe7e7 105q,#fffcfc 109q,#fff 110q,#fdfdff 112q,#fff 116q,#fff 263q"></i><i style="--g:#fff 0,#fff 15q,#fffdfd 21q,#fffefe 37q,#fffcfc 44q,#fff 47q,#f8f8ff 49q,#e6e6ff 52q,#e5e5ff 53q,#eaeaff 54q,#f9f9ff 55q,#ffeded 56q,#ffadad 58q,#f99 59q,#ff9393 60q,#ff9595 61q,#ffa4a4 62q,#ffd2d2 63q,#f2f2ff 64q,#b8b8ff 65q,#9696ff 66q,#8b8bff 67q,#8a8aff 68q,#9494ff 69q,#aaf 70q,#fff 72q,#ffe1e1 73q,#ffd1d1 74q,#ffcdcd 75q,#ffd3d3 76q,#ffdfdf 77q,#fff9f9 79q,#fafaff 80q,#f3f3ff 81q,#efefff 82q,#efefff 83q,#f3f3ff 84q,#fcfcff 85q,#fff6f6 86q,#ffd8d8 88q,#fcc 89q,#ffc8c8 90q,#fcc 91q,#ffdbdb 92q,#fff2f2 93q,#f1f1ff 94q,#d7d7ff 95q,#c4c4ff 96q,#bbf 97q,#bdbdff 98q,#c9c9ff 99q,#f0f0ff 101q,#fffdfd 102q,#fff0f0 103q,#ffe9e9 104q,#ffe8e8 105q,#fffafa 109q,#fff 111q,#fdfdff 113q,#fff 116q,#fff 263q"></i><i style="--g:#fff 0,#fff 15q,#fffdfd 21q,#fffdfd 37q,#fffbfb 44q,#fffefe 47q,#fefeff 48q,#f9f9ff 49q,#e4e4ff 52q,#e1e1ff 53q,#e3e3ff 54q,#eef 55q,#fffbfb 56q,#ffdcdc 57q,#ffb8b8 58q,#ff9c9c 59q,#ff9191 60q,#ff8e8e 61q,#ff9696 62q,#ffb2b2 63q,#ffeaea 64q,#d8d8ff 65q,#a3a3ff 66q,#9090ff 67q,#8a8aff 68q,#8f8fff 69q,#9d9dff 70q,#bfbfff 71q,#e8e8ff 72q,#fff4f4 73q,#fdd 74q,#ffd3d3 75q,#ffd4d4 76q,#ffdcdc 77q,#fff 80q,#f6f6ff 81q,#f0f0ff 82q,#eef 83q,#f0f0ff 84q,#f6f6ff 85q,#fffcfc 86q,#fdd 88q,#ffcece 89q,#ffc5c5 90q,#ffc5c5 91q,#ffcfcf 92q,#ffe3e3 93q,#fffefe 94q,#cdcdff 96q,#bfbfff 97q,#bbf 98q,#c3c3ff 99q,#d2d2ff 100q,#f7f7ff 102q,#fff8f8 103q,#ffefef 104q,#ffebeb 105q,#ffecec 106q,#fff9f9 109q,#fff 111q,#fefeff 114q,#fff 116q,#fff 263q"></i><i style="--g:#fff 0,#fff 15q,#fffdfd 22q,#fffdfd 38q,#fffbfb 45q,#fffcfc 47q,#fff 48q,#fbfbff 49q,#ddf 53q,#dcdcff 54q,#e3e3ff 55q,#f5f5ff 56q,#ffecec 57q,#ffa2a2 59q,#ff8b8b 61q,#ff8d8d 62q,#ff9b9b 63q,#ffc6c6 64q,#fbfbff 65q,#bfbfff 66q,#99f 67q,#8d8dff 68q,#8c8cff 69q,#9595ff 70q,#aaf 71q,#f6f6ff 73q,#ffecec 74q,#ffdcdc 75q,#ffd8d8 76q,#ffdbdb 77q,#ffe5e5 78q,#fffcfc 80q,#f9f9ff 81q,#f1f1ff 82q,#ededff 83q,#ededff 84q,#f1f1ff 85q,#fbfbff 86q,#fff4f4 87q,#ffd1d1 89q,#ffc4c4 90q,#ffbfbf 91q,#ffc5c5 92q,#ffd5d5 93q,#fee 94q,#f4f4ff 95q,#dadaff 96q,#c7c7ff 97q,#bdbdff 98q,#bfbfff 99q,#cacaff 100q,#fdfdff 103q,#fff6f6 104q,#ffefef 105q,#fee 106q,#fffbfb 110q,#fff 112q,#fefeff 114q,#fff 116q,#fff 263q"></i><i style="--g:#fff 0,#fefeff 9q,#fff 16q,#fffdfd 22q,#fffdfd 38q,#fffbfb 45q,#fffbfb 47q,#fffefe 48q,#fcfcff 49q,#f6f6ff 50q,#dadaff 53q,#d6d6ff 54q,#d9d9ff 55q,#e7e7ff 56q,#fffdfd 57q,#ffd8d8 58q,#ffaeae 59q,#ff9595 60q,#f88 62q,#ff8f8f 63q,#ffa5a5 64q,#ffdede 65q,#e2e2ff 66q,#aaf 67q,#9494ff 68q,#8d8dff 69q,#9191ff 70q,#9e9eff 71q,#e2e2ff 73q,#fffdfd 74q,#ffe8e8 75q,#ffdede 76q,#fdd 77q,#ffe3e3 78q,#fff8f8 80q,#fcfcff 81q,#f3f3ff 82q,#ededff 83q,#eaeaff 84q,#ededff 85q,#f5f5ff 86q,#fffcfc 87q,#ffd7d7 89q,#ffc6c6 90q,#ffbdbd 91q,#ffbdbd 92q,#ffc8c8 93q,#fdd 94q,#fff9f9 95q,#e9e9ff 96q,#d1d1ff 97q,#c3c3ff 98q,#bebeff 99q,#c4c4ff 100q,#d2d2ff 101q,#f3f3ff 103q,#fffdfd 104q,#fff5f5 105q,#fff1f1 106q,#fff1f1 107q,#fff 112q,#fff 263q"></i><i style="--g:#fff 0,#fefeff 10q,#fff 17q,#fffdfd 23q,#fffefe 38q,#fffafa 46q,#fffcfc 48q,#fff 49q,#f8f8ff 50q,#d1d1ff 54q,#d0d0ff 55q,#d9d9ff 56q,#efefff 57q,#ffecec 58q,#ff9b9b 60q,#ff8484 62q,#f88 63q,#ff9494 64q,#ffb9b9 65q,#fff7f7 66q,#cacaff 67q,#9f9fff 68q,#9292ff 69q,#9090ff 70q,#99f 71q,#acacff 72q,#f0f0ff 74q,#fff5f5 75q,#ffe6e6 76q,#ffe1e1 77q,#ffe3e3 78q,#ffebeb 79q,#fff 81q,#f5f5ff 82q,#e9e9ff 84q,#e8e8ff 85q,#eef 86q,#fafaff 87q,#fff3f3 88q,#ffcbcb 90q,#ffbdbd 91q,#ffb7b7 92q,#ffbdbd 93q,#ffcece 94q,#ffe8e8 95q,#f9f9ff 96q,#dfdfff 97q,#ccf 98q,#c2c2ff 99q,#c2c2ff 100q,#ccf 101q,#f9f9ff 104q,#fffbfb 105q,#fff5f5 106q,#fff3f3 107q,#fff 113q,#fff 263q"></i><i style="--g:#fff 0,#fefeff 10q,#fff 14q,#fffdfd 23q,#fffefe 39q,#fffafa 47q,#fffefe 49q,#fafaff 50q,#f2f2ff 51q,#cdcdff 54q,#c8c8ff 55q,#ccf 56q,#ddf 57q,#fdfdff 58q,#ffd6d6 59q,#ffa6a6 60q,#ff8f8f 61q,#ff8282 63q,#f88 64q,#ff9c9c 65q,#ffd1d1 66q,#eef 67q,#b7b7ff 68q,#99f 69q,#9292ff 70q,#9595ff 71q,#a1a1ff 72q,#fafaff 75q,#fff1f1 76q,#ffe7e7 77q,#ffe5e5 78q,#ffeaea 79q,#fffcfc 81q,#f8f8ff 82q,#eef 83q,#e8e8ff 84q,#e5e5ff 85q,#e8e8ff 86q,#f2f2ff 87q,#fffcfc 88q,#ffd2d2 90q,#ffc0c0 91q,#ffb5b5 92q,#ffb5b5 93q,#ffc1c1 94q,#ffd7d7 95q,#fff3f3 96q,#efefff 97q,#d7d7ff 98q,#c8c8ff 99q,#c3c3ff 100q,#c8c8ff 101q,#d3d3ff 102q,#f1f1ff 104q,#fcfcff 105q,#fffafa 106q,#fff6f6 107q,#fff5f5 108q,#fff 113q,#fff 263q"></i><i style="--g:#fff 0,#fdfdff 11q,#fff 15q,#fffdfd 27q,#fff 40q,#fff9f9 47q,#fffafa 48q,#fdfdff 50q,#f5f5ff 51q,#ccf 54q,#c2c2ff 55q,#c0c0ff 56q,#ccf 57q,#e7e7ff 58q,#fee 59q,#ffbdbd 60q,#ff9696 61q,#ff7f7f 63q,#ff8d8d 65q,#ffacac 66q,#ffeaea 67q,#d8d8ff 68q,#aaf 69q,#99f 70q,#9595ff 71q,#9c9cff 72q,#b0b0ff 73q,#ebebff 75q,#fffdfd 76q,#ffefef 77q,#ffe9e9 78q,#ffeaea 79q,#fff9f9 81q,#fafaff 82q,#e8e8ff 84q,#e2e2ff 85q,#e3e3ff 86q,#e9e9ff 87q,#f7f7ff 88q,#fff3f3 89q,#ffc6c6 91q,#ffb6b6 92q,#ffb0b0 93q,#ffb6b6 94q,#ffc8c8 95q,#ffe1e1 96q,#fff 97q,#e5e5ff 98q,#d2d2ff 99q,#c8c8ff 100q,#c7c7ff 101q,#cfcfff 102q,#f6f6ff 105q,#fff 106q,#fff9f9 107q,#fff7f7 108q,#fff7f7 109q,#fff 114q,#fff 263q"></i><i style="--g:#fff 0,#fdfdff 12q,#fff 16q,#fff 41q,#fff9f9 48q,#fffafa 49q,#fff 50q,#f8f8ff 51q,#ececff 52q,#bdbdff 55q,#b6b6ff 56q,#bbf 57q,#d1d1ff 58q,#f6f6ff 59q,#ffd7d7 60q,#ffa3a3 61q,#ff8b8b 62q,#ff7d7d 64q,#ff8484 65q,#ff9595 66q,#ffc3c3 67q,#fdfdff 68q,#c6c6ff 69q,#a2a2ff 70q,#99f 71q,#9b9bff 72q,#a6a6ff 73q,#f5f5ff 76q,#fff8f8 77q,#fee 78q,#ffecec 79q,#fff0f0 80q,#fdfdff 82q,#e8e8ff 84q,#e1e1ff 85q,#dedeff 86q,#e2e2ff 87q,#ededff 88q,#fff 89q,#ffcfcf 91q,#fbb 92q,#ffafaf 93q,#ffaeae 94q,#fbb 95q,#ffd0d0 96q,#ffecec 97q,#f6f6ff 98q,#dedeff 99q,#cfcfff 100q,#cacaff 101q,#cdcdff 102q,#d6d6ff 103q,#f9f9ff 106q,#fffefe 107q,#fffafa 108q,#fff9f9 109q,#fff 114q,#fff 263q"></i><i style="--g:#fff 0,#fdfdff 13q,#fff 18q,#fff 42q,#fff8f8 48q,#fff8f8 49q,#fffbfb 50q,#fcfcff 51q,#f0f0ff 52q,#bbf 55q,#afafff 56q,#adadff 57q,#bbf 58q,#dbdbff 59q,#fff4f4 60q,#ffbdbd 61q,#ff9494 62q,#ff7c7c 64q,#f88 66q,#ffa1a1 67q,#ffdbdb 68q,#e8e8ff 69q,#babaff 70q,#a1a1ff 71q,#9d9dff 72q,#a2a2ff 73q,#b6b6ff 74q,#e9e9ff 76q,#fcfcff 77q,#fff5f5 78q,#ffefef 79q,#fff0f0 80q,#fff5f5 81q,#fffefe 82q,#eaeaff 84q,#dbdbff 86q,#dbdbff 87q,#e3e3ff 88q,#f3f3ff 89q,#fff4f4 90q,#ffc2c2 92q,#ffb1b1 93q,#faa 94q,#ffb0b0 95q,#ffc1c1 96q,#fff7f7 98q,#ededff 99q,#dadaff 100q,#cfcfff 101q,#ceceff 102q,#d3d3ff 103q,#f4f4ff 106q,#fcfcff 107q,#fffdfd 108q,#fffafa 110q,#fff 115q,#fff 263q"></i><i style="--g:#fff 0,#fff 8q,#fdfdff 15q,#fff 22q,#fff 38q,#fefeff 39q,#fff 43q,#fff7f7 49q,#fff9f9 50q,#fff 51q,#f5f5ff 52q,#e5e5ff 53q,#bcbcff 55q,#aaf 56q,#a3a3ff 57q,#a8a8ff 58q,#c0c0ff 59q,#ebebff 60q,#ffdcdc 61q,#ffa2a2 62q,#f88 63q,#ff7a7a 65q,#ff9090 67q,#ffb6b6 68q,#fff2f2 69q,#d7d7ff 70q,#b2b2ff 71q,#a2a2ff 72q,#a3a3ff 73q,#afafff 74q,#f2f2ff 77q,#fffcfc 78q,#fff4f4 79q,#fff1f1 80q,#fff4f4 81q,#fffbfb 82q,#f8f8ff 83q,#e1e1ff 85q,#d9d9ff 86q,#d6d6ff 87q,#dadaff 88q,#e7e7ff 89q,#fcfcff 90q,#ffe8e8 91q,#ffb7b7 93q,#faa 94q,#faa 95q,#ffb4b4 96q,#ffcaca 97q,#fefeff 99q,#e7e7ff 100q,#d8d8ff 101q,#d2d2ff 102q,#d3d3ff 103q,#dadaff 104q,#f7f7ff 107q,#fdfdff 108q,#fffbfb 110q,#fffbfb 111q,#fff 115q,#fff 263q"></i><i style="--g:#fff 0,#fff 9q,#fdfdff 17q,#fdfdff 40q,#fff 44q,#fff5f5 49q,#fff6f6 50q,#fffafa 51q,#fbfbff 52q,#ececff 53q,#aaf 56q,#9e9eff 57q,#9d9dff 58q,#a7a7ff 59q,#ccf 60q,#fff 61q,#ffc1c1 62q,#ff9494 63q,#ff8181 64q,#ff7a7a 65q,#ff8585 67q,#f99 68q,#ffcdcd 69q,#f9f9ff 70q,#ccf 71q,#b0b0ff 72q,#a7a7ff 73q,#adadff 74q,#bebeff 75q,#e9e9ff 77q,#fafaff 78q,#fff9f9 79q,#fff3f3 80q,#fff4f4 81q,#fff9f9 82q,#fbfbff 83q,#d8d8ff 86q,#d2d2ff 87q,#d2d2ff 88q,#dcdcff 89q,#eef 90q,#fff7f7 91q,#ffc0c0 93q,#ffadad 94q,#ffa6a6 95q,#faa 96q,#fbb 97q,#ffefef 99q,#f6f6ff 100q,#e3e3ff 101q,#d8d8ff 102q,#d5d5ff 103q,#d9d9ff 104q,#fafaff 108q,#fff 109q,#fffcfc 111q,#fff 115q,#fff 263q"></i><i style="--g:#fff 0,#fff 10q,#fcfcff 19q,#fcfcff 40q,#fff 45q,#fff7f7 48q,#fff4f4 50q,#fff6f6 51q,#fffefe 52q,#f3f3ff 53q,#dedeff 54q,#aaf 56q,#9c9cff 57q,#99f 59q,#adadff 60q,#dcdcff 61q,#ffe5e5 62q,#ffa5a5 63q,#f88 64q,#f77 66q,#ff8c8c 68q,#faa 69q,#ffe3e3 70q,#e9e9ff 71q,#c5c5ff 72q,#b2b2ff 73q,#b0b0ff 74q,#bbf 75q,#f2f2ff 78q,#fff 79q,#fff6f6 80q,#fff4f4 81q,#fff7f7 82q,#fff 83q,#d9d9ff 86q,#cfcfff 87q,#ccf 88q,#d1d1ff 89q,#e0e0ff 90q,#f7f7ff 91q,#ffeaea 92q,#ffb5b5 94q,#ffa7a7 95q,#ffa5a5 96q,#ffb0b0 97q,#ffc4c4 98q,#fff8f8 100q,#f0f0ff 101q,#e1e1ff 102q,#dadaff 103q,#dadaff 104q,#e0e0ff 105q,#f7f7ff 108q,#fff 110q,#fffdfd 112q,#fff 115q,#fff 263q"></i><i style="--g:#fff 0,#fff 11q,#fbfbff 20q,#fcfcff 41q,#fff 45q,#fff2f2 50q,#fff2f2 51q,#fff8f8 52q,#fafaff 53q,#e7e7ff 54q,#b0b0ff 56q,#9b9bff 57q,#9292ff 58q,#9191ff 59q,#99f 60q,#b8b8ff 61q,#f1f1ff 62q,#ffcaca 63q,#ff9696 64q,#ff8282 65q,#ff7979 66q,#ff8383 68q,#ff9595 69q,#ffc0c0 70q,#fff5f5 71q,#dedeff 72q,#c3c3ff 73q,#b8b8ff 74q,#bbf 75q,#c8c8ff 76q,#ebebff 78q,#fafaff 79q,#fffafa 80q,#fff5f5 81q,#fff6f6 82q,#fffcfc 83q,#f7f7ff 84q,#dbdbff 86q,#c7c7ff 88q,#c8c8ff 89q,#d2d2ff 90q,#e7e7ff 91q,#fffcfc 92q,#ffc1c1 94q,#ffadad 95q,#ffa4a4 96q,#ffa8a8 97q,#ffb7b7 98q,#fff 101q,#ececff 102q,#e2e2ff 103q,#dedeff 104q,#e6e6ff 106q,#f9f9ff 109q,#fff 111q,#fffdfd 113q,#fff 116q,#fff 263q"></i><i style="--g:#fff 0,#fff 12q,#fbfbff 17q,#fafaff 21q,#fbfbff 42q,#fff 46q,#fff0f0 50q,#ffefef 51q,#fff2f2 52q,#fffbfb 53q,#f1f1ff 54q,#d8d8ff 55q,#9d9dff 57q,#8b8bff 59q,#8e8eff 60q,#9c9cff 61q,#c9c9ff 62q,#fff4f4 63q,#ffafaf 64q,#ff8c8c 65q,#ff7979 67q,#ff8a8a 69q,#ffa2a2 70q,#ffd5d5 71q,#fafaff 72q,#d8d8ff 73q,#c5c5ff 74q,#c0c0ff 75q,#c7c7ff 76q,#d5d5ff 77q,#f4f4ff 79q,#fffefe 80q,#fff7f7 81q,#fff5f5 82q,#fff9f9 83q,#fcfcff 84q,#d0d0ff 87q,#c5c5ff 88q,#c1c1ff 89q,#c6c6ff 90q,#d7d7ff 91q,#f0f0ff 92q,#ffefef 93q,#ffd0d0 94q,#ffb7b7 95q,#ffa7a7 96q,#ffa4a4 97q,#ffadad 98q,#ffc0c0 99q,#fff0f0 101q,#f9f9ff 102q,#ebebff 103q,#e3e3ff 104q,#e2e2ff 105q,#fbfbff 110q,#fff 112q,#fffefe 114q,#fff 116q,#fff 263q"></i><i style="--g:#fff 0,#fff 13q,#fbfbff 17q,#f9f9ff 22q,#fafaff 42q,#fbfbff 44q,#fff 46q,#ffebeb 51q,#ffecec 52q,#fff3f3 53q,#fcfcff 54q,#e4e4ff 55q,#a2a2ff 57q,#9191ff 58q,#8686ff 60q,#8d8dff 61q,#a3a3ff 62q,#dfdfff 63q,#ffd9d9 64q,#ff9c9c 65q,#ff8585 66q,#ff7a7a 68q,#ff9393 70q,#ffb5b5 71q,#ffe7e7 72q,#efefff 73q,#d5d5ff 74q,#c9c9ff 75q,#cacaff 76q,#d3d3ff 77q,#fdfdff 80q,#fff9f9 81q,#fff5f5 82q,#fff6f6 83q,#fffefe 84q,#f4f4ff 85q,#d3d3ff 87q,#bbf 89q,#bdbdff 90q,#c8c8ff 91q,#dedeff 92q,#fbfbff 93q,#ffe2e2 94q,#ffc5c5 95q,#ffafaf 96q,#ffa5a5 97q,#ffa7a7 98q,#ffb5b5 99q,#fff7f7 102q,#f6f6ff 103q,#ebebff 104q,#e6e6ff 105q,#e7e7ff 106q,#f9f9ff 110q,#fff 112q,#fffefe 115q,#fff 116q,#fff 263q"></i><i style="--g:#fff 0,#fffefe 8q,#fff 13q,#fafaff 18q,#f9f9ff 23q,#fafaff 43q,#fefeff 46q,#fffdfd 47q,#ffe9e9 51q,#ffe7e7 52q,#ffeaea 53q,#fff6f6 54q,#f2f2ff 55q,#d2d2ff 56q,#acacff 57q,#9494ff 58q,#8181ff 60q,#9090ff 62q,#b3b3ff 63q,#f8f8ff 64q,#ffbebe 65q,#ff9191 66q,#ff8080 67q,#ff7b7b 68q,#f88 70q,#ff9e9e 71q,#fff5f5 73q,#e9e9ff 74q,#d6d6ff 75q,#d0d0ff 76q,#d4d4ff 77q,#dfdfff 78q,#f9f9ff 80q,#fffbfb 81q,#fff4f4 82q,#fff4f4 83q,#fff9f9 84q,#fafaff 85q,#c7c7ff 88q,#babaff 89q,#b5b5ff 90q,#bbf 91q,#ccf 92q,#e7e7ff 93q,#fff6f6 94q,#ffd6d6 95q,#fbb 96q,#faa 97q,#ffa6a6 98q,#ffadad 99q,#ffbebe 100q,#ffe9e9 102q,#fffcfc 103q,#f4f4ff 104q,#ececff 105q,#eaeaff 106q,#ececff 107q,#fbfbff 111q,#fff 113q,#fffefe 116q,#fff 117q,#fff 263q"></i><i style="--g:#fff 0,#fffdfd 9q,#fff 14q,#fafaff 18q,#f9f9ff 23q,#f9f9ff 43q,#fbfbff 45q,#fff 47q,#ffe2e2 52q,#ffe2e2 53q,#ffebeb 54q,#fffdfd 55q,#e3e3ff 56q,#99f 58q,#88f 59q,#7d7dff 61q,#8383ff 62q,#9595ff 63q,#c8c8ff 64q,#ffecec 65q,#ffa6a6 66q,#ff8a8a 67q,#ff7f7f 68q,#ff8383 70q,#ff9292 71q,#ffaeae 72q,#ffdbdb 73q,#fff 74q,#e6e6ff 75q,#d9d9ff 76q,#d8d8ff 77q,#dfdfff 78q,#f6f6ff 80q,#fffcfc 81q,#fff5f5 82q,#fff1f1 83q,#fff4f4 84q,#fffdfd 85q,#f2f2ff 86q,#ccf 88q,#bbf 89q,#b1b1ff 90q,#b1b1ff 91q,#bcbcff 92q,#d3d3ff 93q,#f2f2ff 94q,#ffeaea 95q,#fcc 96q,#ffb4b4 97q,#faa 98q,#faa 99q,#ffb5b5 100q,#fff0f0 103q,#fff 104q,#f4f4ff 105q,#efefff 106q,#eef 107q,#fff 113q,#fffefe 117q,#fff 118q,#fff 263q"></i><i style="--g:#fff 0,#fffcfc 9q,#fff 14q,#fafaff 19q,#f9f9ff 24q,#f9f9ff 44q,#fcfcff 46q,#fff 47q,#fffbfb 48q,#ffdede 52q,#ffdbdb 53q,#ffdfdf 54q,#fee 55q,#f6f6ff 56q,#d0d0ff 57q,#a3a3ff 58q,#8d8dff 59q,#7979ff 61q,#8585ff 63q,#9e9eff 64q,#e1e1ff 65q,#ffd3d3 66q,#f99 67q,#ff8686 68q,#ff8181 70q,#ff9c9c 72q,#ffe8e8 74q,#f8f8ff 75q,#e6e6ff 76q,#dfdfff 77q,#e1e1ff 78q,#fff 81q,#fff5f5 82q,#fff0f0 83q,#fff0f0 84q,#fff7f7 85q,#fafaff 86q,#bebeff 89q,#afafff 90q,#aaf 91q,#afafff 92q,#c1c1ff 93q,#ddf 94q,#fff 95q,#ffdfdf 96q,#ffc3c3 97q,#ffb1b1 98q,#faa 99q,#ffb0b0 100q,#ffbebe 101q,#fff5f5 104q,#fcfcff 105q,#f4f4ff 106q,#f1f1ff 107q,#f1f1ff 108q,#fcfcff 112q,#fff 114q,#fffefe 118q,#fff 120q,#fff 263q"></i><i style="--g:#fff 0,#fffcfc 10q,#fff 15q,#fafaff 19q,#f9f9ff 24q,#fafaff 36q,#f9f9ff 44q,#fefeff 47q,#fffcfc 48q,#fff6f6 49q,#ffd4d4 53q,#ffd4d4 54q,#ffdede 55q,#fff4f4 56q,#e6e6ff 57q,#b8b8ff 58q,#9494ff 59q,#8282ff 60q,#77f 62q,#8a8aff 64q,#b0b0ff 65q,#fafaff 66q,#fbb 67q,#ff9393 68q,#ff8585 69q,#ff8181 70q,#ff9393 72q,#faa 73q,#ffd2d2 74q,#fff3f3 75q,#f4f4ff 76q,#e8e8ff 77q,#e5e5ff 78q,#eaeaff 79q,#fff 81q,#fee 83q,#ffecec 84q,#fff0f0 85q,#fffbfb 86q,#f2f2ff 87q,#b2b2ff 90q,#a6a6ff 91q,#a5a5ff 92q,#b0b0ff 93q,#c8c8ff 94q,#e7e7ff 95q,#fff4f4 96q,#ffd5d5 97q,#ffbdbd 98q,#ffb0b0 99q,#ffafaf 100q,#ffc7c7 102q,#ffebeb 104q,#fff9f9 105q,#fbfbff 106q,#f6f6ff 107q,#f4f4ff 108q,#fff 114q,#fffefe 118q,#fff 122q,#fff 263q"></i><i style="--g:#fff 0,#fffcfc 10q,#fff 16q,#fcfcff 18q,#fafaff 22q,#fbfbff 36q,#f9f9ff 44q,#fbfbff 46q,#fffdfd 48q,#fff7f7 49q,#ffcfcf 53q,#ffcaca 54q,#ffcfcf 55q,#ffe0e0 56q,#fff 57q,#a0a0ff 59q,#88f 60q,#7373ff 62q,#7d7dff 64q,#9292ff 65q,#c8c8ff 66q,#ffebeb 67q,#faa 68q,#ff8f8f 69q,#ff8686 71q,#ff9d9d 73q,#ffe0e0 75q,#fffafa 76q,#f3f3ff 77q,#ececff 78q,#ededff 79q,#f4f4ff 80q,#fefeff 81q,#ffeded 83q,#ffe8e8 84q,#ffeaea 85q,#fff2f2 86q,#fcfcff 87q,#b7b7ff 90q,#a6a6ff 91q,#a1a1ff 92q,#a4a4ff 93q,#b5b5ff 94q,#d1d1ff 95q,#f3f3ff 96q,#ffeaea 97q,#ffcdcd 98q,#fbb 99q,#ffb2b2 100q,#ffb5b5 101q,#ffc0c0 102q,#fff0f0 105q,#fffbfb 106q,#fbfbff 107q,#f8f8ff 108q,#f7f7ff 109q,#fff 114q,#fffefe 119q,#fff 123q,#fff 263q"></i><i style="--g:#fff 0,#fffbfb 11q,#fff 17q,#fdfdff 19q,#fbfbff 23q,#fcfcff 37q,#fafaff 44q,#fafaff 46q,#fff 48q,#fff0f0 50q,#ffcbcb 53q,#ffc2c2 54q,#ffc1c1 55q,#fcc 56q,#ffe6e6 57q,#eef 58q,#b9b9ff 59q,#9191ff 60q,#7d7dff 61q,#7070ff 63q,#8181ff 65q,#9c9cff 66q,#e1e1ff 67q,#ffd5d5 68q,#ff9f9f 69q,#ff8d8d 70q,#f88 71q,#ff9797 73q,#ffacac 74q,#ffeaea 76q,#fff 77q,#f4f4ff 78q,#f1f1ff 79q,#f5f5ff 80q,#fdfdff 81q,#ffecec 83q,#ffe5e5 84q,#ffe4e4 85q,#ffe9e9 86q,#fff6f6 87q,#f4f4ff 88q,#aaf 91q,#9f9fff 92q,#9e9eff 93q,#a5a5ff 94q,#bbf 95q,#fefeff 97q,#ffe1e1 98q,#ffc8c8 99q,#fbb 100q,#ffb7b7 101q,#ffc9c9 103q,#fff4f4 106q,#fffdfd 107q,#f9f9ff 109q,#f9f9ff 110q,#fff 114q,#fffefe 120q,#fff 125q,#fff 263q"></i><i style="--g:#fff 0,#fffbfb 11q,#fff 19q,#fcfcff 23q,#fdfdff 37q,#fafaff 45q,#fcfcff 47q,#fff 48q,#fffafa 49q,#fff2f2 50q,#ffe6e6 51q,#fbb 54q,#ffb4b4 55q,#ffb9b9 56q,#fcc 57q,#fff1f1 58q,#dadaff 59q,#a0a0ff 60q,#8585ff 61q,#77f 62q,#6e6eff 64q,#88f 66q,#aeaeff 67q,#f8f8ff 68q,#ffc4c4 69q,#ff9b9b 70q,#ff8e8e 71q,#ff8d8d 72q,#ffa1a1 74q,#ffdbdb 76q,#fff2f2 77q,#fdfdff 78q,#f6f6ff 79q,#f7f7ff 80q,#fefeff 81q,#fff6f6 82q,#ffe3e3 84q,#ffdfdf 85q,#ffe1e1 86q,#ffebeb 87q,#fffdfd 88q,#e8e8ff 89q,#b2b2ff 91q,#a1a1ff 92q,#9b9bff 93q,#9d9dff 94q,#aaf 95q,#e6e6ff 97q,#fff6f6 98q,#ffdada 99q,#ffc6c6 100q,#ffbdbd 101q,#ffbdbd 102q,#ffc5c5 103q,#ffeded 106q,#fff7f7 107q,#fffefe 108q,#fbfbff 110q,#fff 115q,#fffefe 121q,#fff 125q,#fff 263q"></i><i style="--g:#fff 0,#fff 3q,#fffbfb 12q,#fffcfc 16q,#fff 19q,#fefeff 29q,#fff 39q,#fbfbff 46q,#fdfdff 48q,#fffcfc 49q,#fff4f4 50q,#ffe8e8 51q,#ffb6b6 54q,#faa 55q,#ffa8a8 56q,#ffb4b4 57q,#ffd2d2 58q,#fdfdff 59q,#c1c1ff 60q,#9191ff 61q,#7b7bff 62q,#6c6cff 64q,#7a7aff 66q,#9090ff 67q,#c6c6ff 68q,#fff1f1 69q,#ffb7b7 70q,#f99 71q,#ff9393 73q,#ff9c9c 74q,#ffb1b1 75q,#ffe6e6 77q,#fff7f7 78q,#fdfdff 79q,#fbfbff 80q,#fff 81q,#fff7f7 82q,#ffe2e2 84q,#ffdada 85q,#ffd9d9 86q,#ffe0e0 87q,#ffefef 88q,#f8f8ff 89q,#a5a5ff 92q,#99f 94q,#9e9eff 95q,#b0b0ff 96q,#f0f0ff 98q,#fee 99q,#ffd6d6 100q,#ffc7c7 101q,#ffc1c1 102q,#ffc5c5 103q,#fff1f1 107q,#fff 109q,#fcfcff 111q,#fff 115q,#fffefe 121q,#fff 125q,#fff 263q"></i><i style="--g:#fff 0,#fffafa 14q,#fff 25q,#fff 42q,#fbfbff 46q,#fbfbff 47q,#fffefe 49q,#fff7f7 50q,#ffecec 51q,#ffdcdc 52q,#ffb4b4 54q,#ffa3a3 55q,#ff9e9e 56q,#ffa0a0 57q,#ffb3b3 58q,#ffdcdc 59q,#e8e8ff 60q,#a5a5ff 61q,#8585ff 62q,#7474ff 63q,#6b6bff 65q,#8080ff 67q,#9c9cff 68q,#ddf 69q,#ffe1e1 70q,#ffb0b0 71q,#ff9b9b 72q,#ff9b9b 74q,#faa 75q,#ffdada 77q,#fee 78q,#fffafa 79q,#fff 80q,#fffefe 81q,#fff7f7 82q,#ffd7d7 85q,#ffd3d3 86q,#ffd6d6 87q,#ffe1e1 88q,#fff6f6 89q,#ededff 90q,#b0b0ff 92q,#9e9eff 93q,#99f 94q,#a1a1ff 96q,#b9b9ff 97q,#fafaff 99q,#ffe8e8 100q,#ffd4d4 101q,#ffc9c9 102q,#ffc8c8 103q,#ffcdcd 104q,#fff4f4 108q,#fff 110q,#fdfdff 112q,#fff 114q,#fffefe 122q,#fff 124q,#fff 263q"></i><i style="--g:#fff 0,#fff 4q,#fffafa 16q,#fffcfc 28q,#fffcfc 39q,#fff 42q,#fff 44q,#fbfbff 47q,#fcfcff 48q,#fff 49q,#fffafa 50q,#ffefef 51q,#ffe0e0 52q,#ffa1a1 55q,#f99 56q,#ff9c9c 58q,#ffb7b7 59q,#ffebeb 60q,#d0d0ff 61q,#9595ff 62q,#7c7cff 63q,#6969ff 65q,#7575ff 67q,#88f 68q,#adadff 69q,#f1f1ff 70q,#ffd4d4 71q,#ffadad 72q,#ff9e9e 73q,#ff9e9e 74q,#ffa6a6 75q,#ffe5e5 78q,#fff3f3 79q,#fffbfb 80q,#fffcfc 81q,#fff7f7 82q,#ffd6d6 85q,#ffcece 86q,#fcc 87q,#ffd4d4 88q,#ffe5e5 89q,#fff 90q,#bfbfff 92q,#a3a3ff 93q,#9696ff 95q,#a6a6ff 97q,#e3e3ff 99q,#fffdfd 100q,#ffe5e5 101q,#ffd5d5 102q,#ffcece 103q,#ffcfcf 104q,#ffd5d5 105q,#fff0f0 108q,#fff7f7 109q,#fff 111q,#fff 263q"></i><i style="--g:#fff 0,#fff 7q,#fff8f8 18q,#fffbfb 39q,#fff 44q,#fff 45q,#fcfcff 47q,#fdfdff 49q,#fffdfd 50q,#fff4f4 51q,#ffe5e5 52q,#ffa0a0 55q,#ff8e8e 57q,#ff8f8f 58q,#ff9a9a 59q,#ffc0c0 60q,#fff 61q,#b5b5ff 62q,#88f 63q,#7575ff 64q,#6969ff 66q,#7a7aff 68q,#9191ff 69q,#c3c3ff 70q,#fffdfd 71q,#ffcdcd 72q,#ffafaf 73q,#ffa4a4 74q,#ffa8a8 75q,#ffb6b6 76q,#fdd 78q,#ffeded 79q,#fff7f7 80q,#fffafa 81q,#fff7f7 82q,#fee 83q,#ffcaca 86q,#ffc5c5 87q,#ffc8c8 88q,#ffd5d5 89q,#ffecec 90q,#f4f4ff 91q,#b1b1ff 93q,#9d9dff 94q,#9696ff 96q,#9d9dff 97q,#afafff 98q,#ececff 100q,#fff7f7 101q,#ffe3e3 102q,#ffd7d7 103q,#ffd4d4 104q,#fdd 106q,#fff4f4 109q,#fff9f9 110q,#fff 112q,#fff 263q"></i><i style="--g:#fff 0,#fff 9q,#fff8f8 16q,#fff6f6 20q,#fff9f9 40q,#fffbfb 43q,#fff 45q,#fff 46q,#fbfbff 48q,#fbfbff 49q,#fff 50q,#fff9f9 51q,#ffebeb 52q,#ffd7d7 53q,#ffa2a2 55q,#ff9393 56q,#f88 58q,#ff8b8b 59q,#ff9c9c 60q,#ffcece 61q,#e7e7ff 62q,#9e9eff 63q,#7f7fff 64q,#6969ff 66q,#7272ff 68q,#8181ff 69q,#9d9dff 70q,#d7d7ff 71q,#fff1f1 72q,#ffcaca 73q,#ffb5b5 74q,#ffb0b0 75q,#ffb7b7 76q,#ffe8e8 79q,#fff3f3 80q,#fff9f9 81q,#fff7f7 82q,#fff0f0 83q,#ffc9c9 86q,#ffc0c0 87q,#ffbebe 88q,#ffc6c6 89q,#ffd8d8 90q,#fff4f4 91q,#e7e7ff 92q,#a5a5ff 94q,#9494ff 96q,#a1a1ff 98q,#b9b9ff 99q,#f3f3ff 101q,#fff4f4 102q,#ffe3e3 103q,#ffdbdb 104q,#ffdada 105q,#fdd 106q,#fff7f7 110q,#fff 113q,#fff 263q"></i><i style="--g:#fff 0,#fff 11q,#fff6f6 17q,#fff4f4 21q,#fff8f8 41q,#fffbfb 44q,#fff 46q,#f9f9ff 49q,#fbfbff 50q,#fffefe 51q,#fff3f3 52q,#ffe0e0 53q,#ffa6a6 55q,#f88 57q,#ff8181 59q,#ff8a8a 60q,#ffa0a0 61q,#ffe1e1 62q,#ceceff 63q,#9090ff 64q,#77f 65q,#6969ff 67q,#77f 69q,#8a8aff 70q,#adadff 71q,#e7e7ff 72q,#ffe9e9 73q,#ffcbcb 74q,#ffbdbd 75q,#ffbdbd 76q,#ffc6c6 77q,#fff0f0 80q,#fff7f7 81q,#fff8f8 82q,#fff3f3 83q,#ffe8e8 84q,#ffbdbd 87q,#ffb6b6 88q,#ffb8b8 89q,#ffc6c6 90q,#ffdede 91q,#fff 92q,#b7b7ff 94q,#9f9fff 95q,#9595ff 97q,#a7a7ff 99q,#f9f9ff 102q,#fff2f2 103q,#ffe5e5 104q,#ffe0e0 105q,#ffe4e4 107q,#fff9f9 111q,#fff 114q,#fff 263q"></i><i style="--g:#fff 0,#fdfdff 7q,#fff 12q,#fff5f5 17q,#fff2f2 22q,#fff6f6 41q,#fff9f9 44q,#fffefe 46q,#fdfdff 47q,#f8f8ff 49q,#f7f7ff 50q,#fafaff 51q,#fffbfb 52q,#ffeaea 53q,#ffd1d1 54q,#ff9797 56q,#f88 57q,#ff7a7a 59q,#ff8a8a 61q,#faa 62q,#fff7f7 63q,#b3b3ff 64q,#88f 65q,#7474ff 66q,#6b6bff 68q,#7e7eff 70q,#9494ff 71q,#f4f4ff 73q,#ffe5e5 74q,#ffcfcf 75q,#ffc7c7 76q,#ffcaca 77q,#fee 80q,#fff7f7 81q,#fff9f9 82q,#fff6f6 83q,#ffecec 84q,#ffbcbc 87q,#ffb1b1 88q,#ffaeae 89q,#ffb5b5 90q,#ffc9c9 91q,#ffe7e7 92q,#f3f3ff 93q,#acacff 95q,#9b9bff 96q,#9595ff 97q,#9e9eff 99q,#b1b1ff 100q,#e6e6ff 102q,#fcfcff 103q,#fff2f2 104q,#ffe9e9 105q,#ffe5e5 106q,#ffe7e7 107q,#fffbfb 112q,#fff 114q,#fff 263q"></i><i style="--g:#fff 0,#fcfcff 8q,#fff 12q,#fff3f3 18q,#fff1f1 22q,#fff5f5 41q,#fff8f8 44q,#fefeff 47q,#f4f4ff 50q,#f5f5ff 51q,#fbfbff 52q,#fff5f5 53q,#ffdede 54q,#ff9d9d 56q,#ff7d7d 58q,#ff7575 60q,#ff8d8d 62q,#ffbcbc 63q,#eef 64q,#9e9eff 65q,#8080ff 66q,#6c6cff 68q,#77f 70q,#a0a0ff 72q,#d2d2ff 73q,#fcfcff 74q,#ffe4e4 75q,#ffd5d5 76q,#ffd2d2 77q,#ffd8d8 78q,#fff7f7 81q,#fffbfb 82q,#fff9f9 83q,#fff1f1 84q,#ffe3e3 85q,#ffbebe 87q,#ffa6a6 89q,#ffa7a7 90q,#ffb5b5 91q,#ffcece 92q,#fff1f1 93q,#e6e6ff 94q,#c1c1ff 95q,#a3a3ff 96q,#9696ff 98q,#a4a4ff 100q,#ececff 103q,#fff 104q,#fff3f3 105q,#ffecec 106q,#ffebeb 107q,#fffbfb 112q,#fff 114q,#fefeff 119q,#fff 121q,#fff 263q"></i><i style="--g:#fff 0,#fbfbff 9q,#fff 13q,#fff3f3 18q,#fff0f0 23q,#fff4f4 42q,#fff9f9 45q,#fff 47q,#f5f5ff 49q,#efefff 51q,#f2f2ff 52q,#fcfcff 53q,#ffeded 54q,#ffcfcf 55q,#ffa7a7 56q,#ff7e7e 58q,#ff7070 60q,#ff7c7c 62q,#ff9292 63q,#ffd2d2 64q,#d6d6ff 65q,#9393ff 66q,#7b7bff 67q,#6e6eff 69q,#7d7dff 71q,#9090ff 72q,#b1b1ff 73q,#dfdfff 74q,#fffcfc 75q,#ffe6e6 76q,#fdd 77q,#fdd 78q,#fff8f8 81q,#fffdfd 82q,#fffdfd 83q,#fff7f7 84q,#ffeaea 85q,#ffb0b0 88q,#ffa3a3 89q,#ffa0a0 90q,#ffa4a4 91q,#ffb7b7 92q,#ffd6d6 93q,#fffcfc 94q,#b7b7ff 96q,#a0a0ff 97q,#99f 99q,#9e9eff 100q,#adadff 101q,#f0f0ff 104q,#fff 105q,#fff5f5 106q,#fff0f0 107q,#fff0f0 108q,#fff 114q,#fefeff 119q,#fff 127q,#fff 263q"></i><i style="--g:#fff 0,#fafaff 9q,#fafaff 11q,#fff 14q,#fff4f4 18q,#fff0f0 23q,#fff4f4 42q,#fff8f8 45q,#fff 47q,#ededff 50q,#e9e9ff 51q,#e9e9ff 52q,#f0f0ff 53q,#fff 54q,#ffe2e2 55q,#ff9797 57q,#ff7575 59q,#ff6b6b 61q,#ff7e7e 63q,#ff9b9b 64q,#ffe9e9 65q,#bebeff 66q,#8b8bff 67q,#7171ff 69q,#77f 71q,#9a9aff 73q,#e8e8ff 75q,#fffafa 76q,#ffebeb 77q,#ffe6e6 78q,#ffe9e9 79q,#fffafa 81q,#fefeff 82q,#fcfcff 83q,#fffdfd 84q,#fff2f2 85q,#ffe0e0 86q,#ffa3a3 89q,#ff9c9c 91q,#ffa4a4 92q,#ffbcbc 93q,#ffdfdf 94q,#f7f7ff 95q,#d0d0ff 96q,#b0b0ff 97q,#9e9eff 98q,#9c9cff 100q,#a4a4ff 101q,#e2e2ff 104q,#f4f4ff 105q,#fff 106q,#fff7f7 107q,#fff4f4 108q,#fff4f4 109q,#fff 114q,#fdfdff 120q,#fff 137q,#fff 263q"></i><i style="--g:#fff 0,#f8f8ff 9q,#fafaff 12q,#fff 14q,#fff3f3 19q,#fff0f0 24q,#fff4f4 42q,#fff8f8 45q,#fff 47q,#e3e3ff 51q,#e0e0ff 52q,#e2e2ff 53q,#eef 54q,#fff8f8 55q,#ffd3d3 56q,#ffa4a4 57q,#f77 59q,#f66 61q,#ff7070 63q,#ff8181 64q,#ffa7a7 65q,#fff 66q,#aaf 67q,#88f 68q,#7474ff 70q,#7f7fff 72q,#a7a7ff 74q,#cfcfff 75q,#efefff 76q,#fffbfb 77q,#fff1f1 78q,#fff0f0 79q,#fffdfd 81q,#f7f7ff 83q,#fafaff 84q,#fffbfb 85q,#ffebeb 86q,#ffa5a5 89q,#ff9b9b 90q,#f99 92q,#ffa5a5 93q,#ffc3c3 94q,#ffeaea 95q,#ececff 96q,#c7c7ff 97q,#aaf 98q,#9f9fff 99q,#9d9dff 100q,#a1a1ff 101q,#aeaeff 102q,#e8e8ff 105q,#f6f6ff 106q,#fff 107q,#fffafa 108q,#fff8f8 109q,#fff9f9 111q,#fff 114q,#fdfdff 120q,#fff 143q,#fff 263q"></i><i style="--g:#fff 0,#f7f7ff 10q,#fafaff 13q,#fff 15q,#fff5f5 19q,#fff2f2 25q,#fff5f5 42q,#fff9f9 45q,#fff 47q,#d7d7ff 52q,#d6d6ff 53q,#ddf 54q,#efefff 55q,#fee 56q,#ff9595 58q,#ff6f6f 60q,#ff6464 62q,#ff7272 64q,#f88 65q,#ffbebe 66q,#e8e8ff 67q,#9e9eff 68q,#8484ff 69q,#7a7aff 70q,#7d7dff 72q,#99f 74q,#d9d9ff 76q,#f2f2ff 77q,#fffefe 78q,#fff9f9 79q,#fdfdff 81q,#f2f2ff 83q,#f2f2ff 84q,#f9f9ff 85q,#fff6f6 86q,#ffe1e1 87q,#ffadad 89q,#ff9c9c 90q,#ff9494 92q,#f99 93q,#faa 94q,#fff4f4 96q,#e2e2ff 97q,#c1c1ff 98q,#aaf 99q,#a1a1ff 100q,#a8a8ff 102q,#ececff 106q,#f7f7ff 107q,#fff 108q,#fffbfb 110q,#fff 114q,#fdfdff 121q,#fff 147q,#fff 263q"></i><i style="--g:#fff 0,#f7f7ff 10q,#f8f8ff 13q,#fff 16q,#fff7f7 20q,#fff4f4 25q,#fff7f7 43q,#fff9f9 45q,#fefeff 47q,#f7f7ff 48q,#efefff 49q,#d0d0ff 52q,#cacaff 53q,#cbcbff 54q,#d8d8ff 55q,#f3f3ff 56q,#ffe1e1 57q,#faa 58q,#f88 59q,#ff7474 60q,#ff6161 63q,#ff7575 65q,#ff9090 66q,#ffd4d4 67q,#d5d5ff 68q,#99f 69q,#8484ff 70q,#7d7dff 71q,#8484ff 73q,#a4a4ff 75q,#c6c6ff 76q,#e1e1ff 77q,#f3f3ff 78q,#fcfcff 79q,#fdfdff 80q,#ececff 83q,#ebebff 84q,#efefff 85q,#fbfbff 86q,#ffefef 87q,#ffa0a0 90q,#ff9090 92q,#f99 94q,#ffb0b0 95q,#fffefe 97q,#dbdbff 98q,#bdbdff 99q,#aaf 100q,#a4a4ff 101q,#a7a7ff 102q,#b3b3ff 103q,#e2e2ff 106q,#efefff 107q,#f8f8ff 108q,#fdfdff 109q,#fff 110q,#fffdfd 111q,#fff 115q,#fdfdff 121q,#fff 149q,#fff 263q"></i><i style="--g:#fff 0,#f6f6ff 11q,#f8f8ff 14q,#fff 17q,#fff9f9 21q,#fff7f7 26q,#fff8f8 42q,#fff9f9 44q,#fffdfd 46q,#fdfdff 47q,#f7f7ff 48q,#eef 49q,#c9c9ff 52q,#bbf 54q,#c0c0ff 55q,#d5d5ff 56q,#f9f9ff 57q,#ffd0d0 58q,#f99 59q,#ff6c6c 61q,#ff5e5e 63q,#ff6969 65q,#ff7a7a 66q,#f99 67q,#ffe9e9 68q,#c6c6ff 69q,#9595ff 70q,#8686ff 71q,#8181ff 72q,#8d8dff 74q,#9b9bff 75q,#d1d1ff 77q,#e5e5ff 78q,#f1f1ff 79q,#f5f5ff 80q,#f3f3ff 81q,#e3e3ff 84q,#e5e5ff 85q,#eef 86q,#fff 87q,#ffe5e5 88q,#ffa8a8 90q,#f99 91q,#ff8d8d 93q,#ff9c9c 95q,#ffb7b7 96q,#ffdfdf 97q,#f8f8ff 98q,#d6d6ff 99q,#bdbdff 100q,#afafff 101q,#ababff 102q,#bdbdff 104q,#e7e7ff 107q,#f1f1ff 108q,#f8f8ff 109q,#fff 111q,#fdfdff 121q,#fff 148q,#fff 263q"></i><i style="--g:#fff 0,#f5f5ff 12q,#f8f8ff 15q,#fff 19q,#fffbfb 25q,#fffbfb 41q,#fffcfc 44q,#fff 46q,#fcfcff 47q,#f6f6ff 48q,#e2e2ff 50q,#b5b5ff 53q,#aaf 54q,#aaf 55q,#b7b7ff 56q,#d4d4ff 57q,#fffafa 58q,#fbb 59q,#ff8c8c 60q,#f66 62q,#ff5c5c 64q,#ff6b6b 66q,#ff8080 67q,#ffa8a8 68q,#fffcfc 69q,#bbf 70q,#9595ff 71q,#88f 73q,#9797ff 75q,#a7a7ff 76q,#d9d9ff 78q,#e7e7ff 79q,#ededff 80q,#ededff 81q,#dcdcff 84q,#dbdbff 85q,#e1e1ff 86q,#f0f0ff 87q,#fff7f7 88q,#ff9e9e 91q,#ff9191 92q,#ff8b8b 94q,#ffa0a0 96q,#ffc0c0 97q,#ffe8e8 98q,#f1f1ff 99q,#d3d3ff 100q,#bebeff 101q,#b5b5ff 102q,#b5b5ff 103q,#bbf 104q,#ececff 108q,#f9f9ff 110q,#fcfcff 111q,#fefeff 113q,#fdfdff 122q,#fff 146q,#fff 263q"></i><i style="--g:#fff 0,#f5f5ff 13q,#f6f6ff 16q,#fff 24q,#fff 40q,#fffefe 42q,#fff 45q,#fafaff 47q,#f5f5ff 48q,#ededff 49q,#e1e1ff 50q,#aeaeff 53q,#9c9cff 55q,#9f9fff 56q,#b0b0ff 57q,#d8d8ff 58q,#ffebeb 59q,#ffa3a3 60q,#ff8181 61q,#ff6c6c 62q,#ff5b5b 64q,#ff6262 66q,#f88 68q,#ffbdbd 69q,#f3f3ff 70q,#b5b5ff 71q,#9797ff 72q,#8e8eff 73q,#8f8fff 74q,#a1a1ff 76q,#ceceff 78q,#ddf 79q,#e6e6ff 80q,#e8e8ff 81q,#e4e4ff 82q,#d6d6ff 84q,#d2d2ff 85q,#d5d5ff 86q,#e0e0ff 87q,#f4f4ff 88q,#fee 89q,#ffa9a9 91q,#ff9696 92q,#f88 94q,#ff9393 96q,#ffa4a4 97q,#fff0f0 99q,#ececff 100q,#d3d3ff 101q,#c3c3ff 102q,#bcbcff 103q,#bebeff 104q,#e7e7ff 108q,#f5f5ff 110q,#fcfcff 112q,#fdfdff 114q,#fff 142q,#fff 263q"></i><i style="--g:#fff 0,#fff 2q,#f3f3ff 15q,#fafaff 27q,#fcfcff 45q,#f9f9ff 47q,#f4f4ff 48q,#ededff 49q,#e1e1ff 50q,#d2d2ff 51q,#aaf 53q,#9494ff 55q,#9797ff 57q,#ababff 58q,#dfdfff 59q,#ffd9d9 60q,#ff9595 61q,#f77 62q,#f66 63q,#ff5a5a 65q,#f66 67q,#ff9191 69q,#ffd0d0 70q,#e8e8ff 71q,#b4b4ff 72q,#9b9bff 73q,#9797ff 75q,#a0a0ff 76q,#d6d6ff 79q,#e0e0ff 80q,#e3e3ff 81q,#e0e0ff 82q,#cbcbff 85q,#cacaff 86q,#d0d0ff 87q,#e1e1ff 88q,#fafaff 89q,#ffe2e2 90q,#ff9e9e 92q,#ff9090 93q,#f88 95q,#ff9696 97q,#ffadad 98q,#fff6f6 100q,#eaeaff 101q,#d4d4ff 102q,#c8c8ff 103q,#c5c5ff 104q,#d0d0ff 106q,#ececff 109q,#f7f7ff 111q,#fcfcff 113q,#fdfdff 115q,#fff 136q,#fff 263q"></i><i style="--g:#fff 0,#fff 3q,#fcfcff 7q,#f0f0ff 17q,#f6f6ff 29q,#f9f9ff 46q,#f4f4ff 48q,#ededff 49q,#e2e2ff 50q,#d3d3ff 51q,#a7a7ff 53q,#99f 54q,#88f 56q,#9191ff 58q,#aaf 59q,#ebebff 60q,#ffc3c3 61q,#f88 62q,#ff6262 64q,#ff5a5a 66q,#ff6969 68q,#ff7c7c 69q,#ff9c9c 70q,#ffe0e0 71q,#e1e1ff 72q,#b6b6ff 73q,#a1a1ff 74q,#a2a2ff 76q,#d0d0ff 79q,#dbdbff 80q,#dfdfff 81q,#ddf 82q,#c4c4ff 85q,#c0c0ff 86q,#c2c2ff 87q,#ceceff 88q,#e4e4ff 89q,#fffbfb 90q,#ffafaf 92q,#ff9797 93q,#ff8686 95q,#ff8d8d 97q,#ff9a9a 98q,#ffb5b5 99q,#fffafa 101q,#eaeaff 102q,#d8d8ff 103q,#cfcfff 104q,#ceceff 105q,#d2d2ff 106q,#f0f0ff 110q,#f9f9ff 112q,#fcfcff 114q,#fefeff 116q,#fff 128q,#fff 263q"></i><i style="--g:#fff 0,#fff 7q,#fafaff 11q,#eef 16q,#ececff 19q,#f7f7ff 46q,#f3f3ff 48q,#eef 49q,#e4e4ff 50q,#d5d5ff 51q,#9696ff 54q,#7f7fff 57q,#8e8eff 59q,#afafff 60q,#fafaff 61q,#ffacac 62q,#ff8080 63q,#ff6a6a 64q,#ff5a5a 66q,#ff6f6f 69q,#ff8484 70q,#faa 71q,#ffecec 72q,#dedeff 73q,#bbf 74q,#ababff 75q,#aaf 76q,#d8d8ff 80q,#ddf 81q,#dcdcff 82q,#d5d5ff 83q,#b8b8ff 86q,#b5b5ff 87q,#bcbcff 88q,#cdcdff 89q,#e9e9ff 90q,#fff1f1 91q,#ffa2a2 93q,#ff9191 94q,#ff8585 96q,#ff9090 98q,#ff9f9f 99q,#fffdfd 102q,#ebebff 103q,#ddf 104q,#d7d7ff 105q,#dbdbff 107q,#f4f4ff 111q,#fafaff 113q,#fff 117q,#fff 263q"></i><i style="--g:#fff 0,#fffefe 6q,#fff 9q,#fcfcff 11q,#eaeaff 17q,#e7e7ff 20q,#efefff 38q,#f5f5ff 47q,#efefff 49q,#e7e7ff 50q,#dadaff 51q,#9797ff 54q,#7e7eff 56q,#77f 58q,#8c8cff 60q,#b7b7ff 61q,#fff2f2 62q,#ff9b9b 63q,#f77 64q,#f66 65q,#ff5a5a 67q,#f66 69q,#ff8d8d 71q,#fbb 72q,#fff5f5 73q,#dedeff 74q,#c4c4ff 75q,#b9b9ff 76q,#bbf 77q,#d7d7ff 80q,#dcdcff 81q,#dcdcff 82q,#d6d6ff 83q,#b3b3ff 86q,#ababff 87q,#acacff 88q,#b8b8ff 89q,#cfcfff 90q,#f0f0ff 91q,#ffe5e5 92q,#fbb 93q,#ff9b9b 94q,#ff8d8d 95q,#ff8585 97q,#ff9494 99q,#ffa5a5 100q,#ffe5e5 102q,#fff 103q,#eef 104q,#e3e3ff 105q,#dfdfff 106q,#e4e4ff 108q,#f4f4ff 111q,#fafaff 113q,#fff 116q,#fff 263q"></i><i style="--g:#fff 0,#fffcfc 7q,#fff 11q,#e9e9ff 17q,#e4e4ff 20q,#ebebff 39q,#f4f4ff 48q,#f1f1ff 49q,#ebebff 50q,#dfdfff 51q,#ccf 52q,#99f 54q,#7d7dff 56q,#7171ff 59q,#8d8dff 61q,#c4c4ff 62q,#fdd 63q,#ff9090 64q,#ff7373 65q,#ff6464 66q,#ff5c5c 68q,#ff6b6b 70q,#ff9696 72q,#fffafa 74q,#e1e1ff 75q,#ceceff 76q,#c7c7ff 77q,#cacaff 78q,#ddf 81q,#dedeff 82q,#d8d8ff 83q,#b0b0ff 86q,#a5a5ff 87q,#a2a2ff 88q,#a5a5ff 89q,#b6b6ff 90q,#d3d3ff 91q,#f9f9ff 92q,#ffdada 93q,#ffafaf 94q,#ff9696 95q,#ff8686 97q,#ff8d8d 99q,#f99 100q,#ffaeae 101q,#ffe9e9 103q,#fff 104q,#f1f1ff 105q,#e9e9ff 106q,#e7e7ff 107q,#e8e8ff 108q,#fafaff 113q,#fff 116q,#fff 263q"></i><i style="--g:#fff 0,#fff9f9 8q,#fffbfb 10q,#fff 12q,#e8e8ff 17q,#e0e0ff 21q,#e9e9ff 40q,#f5f5ff 48q,#f4f4ff 49q,#f0f0ff 50q,#e6e6ff 51q,#d6d6ff 52q,#a0a0ff 54q,#7d7dff 56q,#6b6bff 58q,#6c6cff 60q,#77f 61q,#8f8fff 62q,#d3d3ff 63q,#ffc9c9 64q,#f88 65q,#ff6f6f 66q,#ff5e5e 68q,#ff7272 71q,#ffa0a0 73q,#ffd3d3 74q,#fffcfc 75q,#e6e6ff 76q,#d9d9ff 77q,#d5d5ff 78q,#e1e1ff 81q,#e2e2ff 82q,#dcdcff 83q,#d1d1ff 84q,#a2a2ff 87q,#9c9cff 89q,#a2a2ff 90q,#b7b7ff 91q,#fffbfb 93q,#ffa4a4 95q,#ff9292 96q,#f88 98q,#ff9191 100q,#ff9f9f 101q,#ffebeb 104q,#fffdfd 105q,#f5f5ff 106q,#efefff 107q,#eef 108q,#fff 115q,#fffdfd 122q,#fff 148q,#fff 263q"></i><i style="--g:#fff 0,#fff7f7 8q,#fff9f9 11q,#fefeff 13q,#e8e8ff 17q,#e1e1ff 19q,#dedeff 22q,#e8e8ff 41q,#f8f8ff 49q,#f6f6ff 50q,#efefff 51q,#e1e1ff 52q,#cbcbff 53q,#9292ff 55q,#7373ff 57q,#6464ff 59q,#6969ff 61q,#77f 62q,#9393ff 63q,#e4e4ff 64q,#ffb5b5 65q,#ff8282 66q,#ff6d6d 67q,#ff6060 69q,#ff7979 72q,#ff8d8d 73q,#ffadad 74q,#ffdbdb 75q,#fffcfc 76q,#ededff 77q,#e4e4ff 78q,#e2e2ff 79q,#e7e7ff 82q,#e2e2ff 83q,#d8d8ff 84q,#a3a3ff 87q,#9696ff 89q,#a0a0ff 91q,#b9b9ff 92q,#e0e0ff 93q,#fff1f1 94q,#ffc4c4 95q,#ff9f9f 96q,#ff9090 97q,#f88 99q,#ff9696 101q,#ffa5a5 102q,#ffd8d8 104q,#ffeded 105q,#fffbfb 106q,#fafaff 107q,#f5f5ff 108q,#f4f4ff 109q,#fff 115q,#fffcfc 122q,#fff 160q,#fff 263q"></i><i style="--g:#fff 0,#fff6f6 6q,#fff4f4 9q,#fff6f6 11q,#fffdfd 13q,#fcfcff 14q,#e5e5ff 18q,#e0e0ff 20q,#ddf 23q,#e8e8ff 42q,#efefff 45q,#fcfcff 49q,#fdfdff 50q,#f9f9ff 51q,#efefff 52q,#dbdbff 53q,#9c9cff 55q,#77f 57q,#5e5eff 60q,#66f 62q,#77f 63q,#99f 64q,#f7f7ff 65q,#ffa4a4 66q,#ff7e7e 67q,#f66 69q,#ff7272 72q,#ff9696 74q,#ffdfdf 76q,#fff9f9 77q,#f5f5ff 78q,#efefff 79q,#efefff 82q,#eaeaff 83q,#e0e0ff 84q,#d0d0ff 85q,#a5a5ff 87q,#99f 88q,#9090ff 90q,#9f9fff 92q,#bdbdff 93q,#e8e8ff 94q,#ffe7e7 95q,#fbb 96q,#ff9c9c 97q,#ff9090 98q,#ff8c8c 100q,#ff9c9c 102q,#fdd 105q,#ffeded 106q,#fff9f9 107q,#fefeff 108q,#fafaff 109q,#fafaff 110q,#fff 114q,#fffcfc 117q,#fffcfc 121q,#fff 169q,#fff 263q"></i><i style="--g:#fff 0,#fff5f5 6q,#fff1f1 9q,#fff5f5 12q,#fff 14q,#e8e8ff 18q,#e0e0ff 21q,#dedeff 24q,#e7e7ff 41q,#f0f0ff 45q,#fdfdff 48q,#fffdfd 49q,#fffafa 50q,#fffafa 51q,#fdfdff 52q,#eef 53q,#d4d4ff 54q,#aeaeff 55q,#9090ff 56q,#6c6cff 58q,#5959ff 61q,#66f 63q,#7a7aff 64q,#a3a3ff 65q,#fff6f6 66q,#ff9b9b 67q,#ff7c7c 68q,#ff6d6d 69q,#ff6868 71q,#ff7979 73q,#ff9f9f 75q,#ffe1e1 77q,#fff5f5 78q,#fff 79q,#fafaff 80q,#f8f8ff 82q,#f4f4ff 83q,#ebebff 84q,#dbdbff 85q,#9b9bff 88q,#9191ff 89q,#8c8cff 91q,#a0a0ff 93q,#c3c3ff 94q,#f0f0ff 95q,#ffdfdf 96q,#ffb5b5 97q,#ff9b9b 98q,#ff8e8e 100q,#ffa3a3 103q,#ffe0e0 106q,#fee 107q,#fff7f7 108q,#fffdfd 109q,#fff 110q,#fefeff 111q,#fff 113q,#fffcfc 116q,#fffbfb 121q,#fff 175q,#fff 263q"></i><i style="--g:#fff 0,#fff2f2 7q,#ffefef 10q,#fff2f2 12q,#fdfdff 15q,#f1f1ff 17q,#e8e8ff 19q,#e3e3ff 21q,#e1e1ff 24q,#eaeaff 42q,#f2f2ff 45q,#fbfbff 47q,#fffdfd 48q,#fff1f1 50q,#fee 51q,#fff1f1 52q,#fffbfb 53q,#eef 54q,#ccf 55q,#9f9fff 56q,#7272ff 58q,#55f 61q,#5b5bff 63q,#7e7eff 65q,#b2b2ff 66q,#ffe6e6 67q,#ff9696 68q,#ff7b7b 69q,#ff6f6f 70q,#ff6e6e 72q,#ff9292 75q,#faa 76q,#ffcaca 77q,#ffe1e1 78q,#ffefef 79q,#fff6f6 80q,#fffbfb 82q,#fff 83q,#f7f7ff 84q,#e8e8ff 85q,#d3d3ff 86q,#a0a0ff 88q,#9393ff 89q,#88f 91q,#9191ff 93q,#a1a1ff 94q,#cacaff 95q,#f8f8ff 96q,#ffd8d8 97q,#ffb1b1 98q,#ff9c9c 99q,#ff9292 101q,#ff9e9e 103q,#ffe3e3 107q,#fee 108q,#fff6f6 109q,#fffafa 110q,#fffdfd 112q,#fffafa 121q,#fff 180q,#fff 263q"></i><i style="--g:#fff 0,#fff1f1 7q,#ffeded 10q,#fff2f2 13q,#fffcfc 15q,#fcfcff 16q,#f2f2ff 18q,#eaeaff 20q,#e5e5ff 25q,#eaeaff 38q,#ededff 42q,#f5f5ff 45q,#fff 47q,#ffe2e2 51q,#ffe0e0 52q,#ffe5e5 53q,#fff5f5 54q,#ececff 55q,#9494ff 57q,#6969ff 59q,#5252ff 62q,#5b5bff 64q,#8383ff 66q,#c3c3ff 67q,#ffd8d8 68q,#ff9393 69q,#ff7d7d 70q,#ff7373 71q,#ff7575 73q,#ff9b9b 76q,#ffcece 78q,#ffdfdf 79q,#ffe8e8 80q,#fff2f2 83q,#fffafa 84q,#f7f7ff 85q,#e3e3ff 86q,#aaf 88q,#8b8bff 90q,#8383ff 92q,#9191ff 94q,#a4a4ff 95q,#fff 97q,#ffd3d3 98q,#ffb0b0 99q,#ff9e9e 100q,#f99 101q,#ff9d9d 103q,#ffa6a6 104q,#ffd9d9 107q,#ffe5e5 108q,#fff5f5 110q,#fff8f8 111q,#fffbfb 113q,#fff 181q,#fff 263q"></i><i style="--g:#fff 0,#ffefef 8q,#ffecec 11q,#fff2f2 14q,#fffcfc 16q,#fdfdff 17q,#f5f5ff 19q,#efefff 21q,#ebebff 27q,#f0f0ff 41q,#f6f6ff 44q,#fefeff 46q,#fffafa 47q,#ffcfcf 52q,#ffcece 53q,#ffd8d8 54q,#ffefef 55q,#e9e9ff 56q,#b3b3ff 57q,#8a8aff 58q,#6262ff 60q,#4f4fff 63q,#5c5cff 65q,#6c6cff 66q,#88f 67q,#d3d3ff 68q,#ffcfcf 69q,#ff9393 70q,#ff7f7f 71q,#f77 72q,#ff7c7c 74q,#ffa3a3 77q,#ffcfcf 79q,#ffdada 80q,#ffecec 84q,#fff7f7 85q,#f5f5ff 86q,#dbdbff 87q,#9f9fff 89q,#8f8fff 90q,#8080ff 92q,#8686ff 94q,#9292ff 95q,#aaf 96q,#d7d7ff 97q,#fff9f9 98q,#ffd1d1 99q,#ffb3b3 100q,#ffa1a1 101q,#ff9d9d 102q,#ffa4a4 104q,#ffdede 108q,#ffe8e8 109q,#fff4f4 111q,#fff8f8 113q,#fffafa 115q,#fff 179q,#fff 263q"></i><i style="--g:#fff 0,#fee 9q,#ffebeb 12q,#fff1f1 15q,#fffdfd 18q,#fdfdff 19q,#f5f5ff 23q,#f3f3ff 29q,#f6f6ff 41q,#f9f9ff 43q,#fff 45q,#fff5f5 47q,#ffecec 48q,#ffbebe 52q,#ffb8b8 53q,#fbb 54q,#ffcaca 55q,#ffe9e9 56q,#e4e4ff 57q,#a3a3ff 58q,#8181ff 59q,#6b6bff 60q,#4e4eff 63q,#5e5eff 66q,#7070ff 67q,#9191ff 68q,#e0e0ff 69q,#ffc9c9 70q,#ff9595 71q,#ff8484 72q,#ff7e7e 73q,#ff8f8f 76q,#ffcdcd 80q,#ffd4d4 81q,#fdd 84q,#ffe6e6 85q,#fff6f6 86q,#f0f0ff 87q,#adadff 89q,#9696ff 90q,#88f 91q,#7d7dff 93q,#8686ff 95q,#9494ff 96q,#afafff 97q,#ddf 98q,#fff6f6 99q,#ffd2d2 100q,#ffb7b7 101q,#ffa8a8 102q,#ffa4a4 103q,#ffb1b1 105q,#ffd8d8 108q,#ffebeb 110q,#fff4f4 112q,#fff8f8 114q,#fffafa 118q,#fff 175q,#fff 263q"></i><i style="--g:#fff 0,#ffeded 10q,#ffeaea 13q,#ffefef 16q,#fff 22q,#fcfcff 26q,#fbfbff 31q,#fcfcff 39q,#fff 43q,#fff9f9 45q,#ffefef 47q,#ffdbdb 49q,#ffa4a4 53q,#ffa5a5 55q,#ffbcbc 56q,#ffe5e5 57q,#ddf 58q,#99f 59q,#7979ff 60q,#66f 61q,#4c4cff 64q,#6060ff 67q,#7575ff 68q,#99f 69q,#ebebff 70q,#ffc6c6 71q,#f99 72q,#ff8a8a 73q,#ff8585 74q,#f99 77q,#ffc2c2 80q,#ffcaca 81q,#ffcfcf 84q,#ffd6d6 85q,#ffe3e3 86q,#fff8f8 87q,#e9e9ff 88q,#a1a1ff 90q,#8282ff 92q,#7a7aff 94q,#88f 96q,#9696ff 97q,#b6b6ff 98q,#e2e2ff 99q,#fff4f4 100q,#ffd4d4 101q,#ffbebe 102q,#ffb2b2 103q,#ffb0b0 104q,#ffbebe 106q,#ffe7e7 110q,#fff2f2 112q,#fff8f8 115q,#fffafa 119q,#fff 168q,#fff 263q"></i><i style="--g:#fff 0,#fff9f9 5q,#ffe8e8 14q,#ffe8e8 16q,#fff4f4 23q,#fff8f8 27q,#fffafa 36q,#fff9f9 41q,#fff5f5 44q,#fee 46q,#ffe0e0 48q,#ffd4d4 49q,#ffa3a3 52q,#ff9393 54q,#f99 56q,#ffafaf 57q,#ffe3e3 58q,#d3d3ff 59q,#9090ff 60q,#5f5fff 62q,#4b4bff 65q,#66f 68q,#7b7bff 69q,#a1a1ff 70q,#f3f3ff 71q,#ffc7c7 72q,#ff9e9e 73q,#ff8e8e 75q,#ff9797 77q,#fbb 80q,#ffc1c1 81q,#ffc3c3 84q,#ffc6c6 85q,#ffcfcf 86q,#ffe1e1 87q,#fffbfb 88q,#e0e0ff 89q,#b8b8ff 90q,#99f 91q,#88f 92q,#7979ff 94q,#7e7eff 96q,#99f 98q,#bbf 99q,#e5e5ff 100q,#fff5f5 101q,#ffd9d9 102q,#ffc7c7 103q,#ffbebe 104q,#ffbdbd 105q,#ffecec 111q,#fff4f4 113q,#fff9f9 116q,#fffbfb 120q,#fff 157q,#fff 263q"></i><i style="--g:#fff 0,#fff8f8 7q,#ffe2e2 16q,#ffefef 30q,#fff0f0 42q,#fee 44q,#ffe8e8 46q,#ffdada 48q,#ffcece 49q,#ff9c9c 52q,#ff8585 55q,#ff8e8e 57q,#ffa4a4 58q,#ffe4e4 59q,#c8c8ff 60q,#88f 61q,#5a5aff 63q,#4b4bff 66q,#6969ff 69q,#8181ff 70q,#adadff 71q,#f9f9ff 72q,#fcc 73q,#ffa5a5 74q,#ff9797 76q,#ffa1a1 78q,#fbb 81q,#ffb8b8 85q,#ffbdbd 86q,#ffcaca 87q,#ffe1e1 88q,#fdfdff 89q,#aaf 91q,#9191ff 92q,#8383ff 93q,#77f 95q,#7f7fff 97q,#9d9dff 99q,#e7e7ff 101q,#fff7f7 102q,#ffdfdf 103q,#ffd0d0 104q,#ffcaca 105q,#ffcaca 106q,#ffebeb 111q,#fff7f7 114q,#fffbfb 117q,#fffcfc 121q,#fff 142q,#fff 263q"></i><i style="--g:#fff 0,#fff 4q,#fffcfc 7q,#fff5f5 10q,#ffe0e0 15q,#ffdada 18q,#ffe6e6 33q,#ffe8e8 43q,#ffe5e5 45q,#fdd 47q,#ffc9c9 49q,#f99 52q,#ff8282 54q,#ff7979 56q,#ff8686 58q,#ff9f9f 59q,#ffe6e6 60q,#bbf 61q,#8181ff 62q,#5757ff 64q,#4b4bff 66q,#5d5dff 69q,#88f 71q,#b9b9ff 72q,#fbfbff 73q,#ffd2d2 74q,#ffb2b2 75q,#ffa4a4 76q,#ffa2a2 77q,#ffb8b8 81q,#ffacac 85q,#ffb5b5 87q,#ffc6c6 88q,#ffe2e2 89q,#f6f6ff 90q,#a0a0ff 92q,#7f7fff 94q,#77f 96q,#8181ff 98q,#a0a0ff 100q,#e8e8ff 102q,#fffafa 103q,#ffe6e6 104q,#ffdada 105q,#ffd6d6 106q,#ffdada 108q,#ffecec 111q,#fff5f5 113q,#fffbfb 116q,#fff 126q,#fff 263q"></i><i style="--g:#fff 0,#fdfdff 5q,#fff 8q,#fffafa 10q,#fff1f1 12q,#ffd9d9 16q,#ffd0d0 19q,#ffdfdf 36q,#ffe0e0 44q,#ffdcdc 46q,#ffd1d1 48q,#ffc6c6 49q,#ff9696 52q,#ff7171 56q,#ff7474 58q,#ff8080 59q,#ff9b9b 60q,#ffecec 61q,#adadff 62q,#7b7bff 63q,#55f 65q,#4c4cff 67q,#6262ff 70q,#8f8fff 72q,#c2c2ff 73q,#fbfbff 74q,#ffd9d9 75q,#ffc0c0 76q,#ffb4b4 77q,#ffb2b2 78q,#ffb7b7 82q,#ffa1a1 86q,#ffa3a3 87q,#ffadad 88q,#ffc4c4 89q,#ffe5e5 90q,#eef 91q,#bfbfff 92q,#99f 93q,#7c7cff 95q,#77f 97q,#8383ff 99q,#a4a4ff 101q,#e7e7ff 103q,#fff 104q,#fee 105q,#ffe4e4 106q,#ffe1e1 107q,#ffe5e5 109q,#fff2f2 112q,#fff9f9 114q,#fff 119q,#fff 263q"></i><i style="--g:#fff 0,#fafaff 6q,#fafaff 8q,#fff 10q,#fffbfb 11q,#fff6f6 12q,#ffd7d7 16q,#ffc9c9 19q,#ffc8c8 22q,#ffd8d8 39q,#ffd9d9 45q,#ffcece 48q,#ffc5c5 49q,#f88 53q,#f66 57q,#ff6d6d 59q,#ff7b7b 60q,#f99 61q,#fff3f3 62q,#a1a1ff 63q,#77f 64q,#6161ff 65q,#4e4eff 68q,#66f 71q,#9696ff 73q,#fafaff 75q,#ffe2e2 76q,#ffcdcd 77q,#ffc3c3 78q,#fbb 82q,#ff9c9c 86q,#ff9d9d 88q,#ffa7a7 89q,#ffc3c3 90q,#ffeaea 91q,#e6e6ff 92q,#b4b4ff 93q,#9393ff 94q,#8484ff 95q,#77f 97q,#88f 100q,#aaf 102q,#e6e6ff 104q,#fbfbff 105q,#fff6f6 106q,#fee 107q,#ffebeb 108q,#fee 110q,#fffbfb 114q,#fff 117q,#fdfdff 125q,#fff 157q,#fff 263q"></i><i style="--g:#fff 0,#f5f5ff 7q,#f6f6ff 9q,#fdfdff 11q,#fffbfb 12q,#ffd6d6 16q,#ffc8c8 18q,#ffc1c1 20q,#ffc1c1 23q,#ffd3d3 41q,#ffd4d4 46q,#ffcece 48q,#ffc6c6 49q,#ff7b7b 54q,#ff5f5f 58q,#f66 60q,#f77 61q,#f99 62q,#fffbfb 63q,#99f 64q,#7373ff 65q,#5f5fff 66q,#5050ff 68q,#55f 70q,#6d6dff 72q,#9d9dff 74q,#cdcdff 75q,#f7f7ff 76q,#ffebeb 77q,#ffdada 78q,#ffd0d0 79q,#ffc1c1 82q,#ffa0a0 85q,#ff9494 87q,#ff9797 89q,#ffa3a3 90q,#ffc3c3 91q,#ffefef 92q,#ddf 93q,#aaf 94q,#9090ff 95q,#8282ff 96q,#77f 98q,#8080ff 100q,#99f 102q,#e4e4ff 105q,#f6f6ff 106q,#fffdfd 107q,#fff7f7 108q,#fff5f5 110q,#fff 115q,#fdfdff 118q,#fbfbff 123q,#fff 181q,#fff 263q"></i><i style="--g:#fff 0,#f3f3ff 5q,#f0f0ff 8q,#f2f2ff 10q,#fcfcff 12q,#fff9f9 13q,#ffcece 17q,#ffbebe 20q,#fbb 24q,#ffd1d1 43q,#ffd2d2 47q,#ffc9c9 49q,#ffbfbf 50q,#ff7171 55q,#ff5858 59q,#ff6464 61q,#f77 62q,#ff9b9b 63q,#fafaff 64q,#9595ff 65q,#7171ff 66q,#5f5fff 67q,#55f 69q,#5b5bff 71q,#7474ff 73q,#a3a3ff 75q,#d0d0ff 76q,#f3f3ff 77q,#fff4f4 78q,#ffe5e5 79q,#ffcbcb 82q,#ffa1a1 85q,#ff8d8d 88q,#ff9393 90q,#ffa1a1 91q,#ffc5c5 92q,#fff4f4 93q,#d6d6ff 94q,#a4a4ff 95q,#8d8dff 96q,#8181ff 97q,#7a7aff 99q,#8484ff 101q,#9d9dff 103q,#ceceff 105q,#e2e2ff 106q,#f1f1ff 107q,#fafaff 108q,#fff 109q,#fffdfd 110q,#fffdfd 111q,#fff 113q,#fbfbff 117q,#fafaff 122q,#fff 197q,#fff 263q"></i><i style="--g:#fff 0,#eef 6q,#eaeaff 9q,#f0f0ff 11q,#f6f6ff 12q,#fff 13q,#ffd1d1 17q,#ffc1c1 19q,#fbb 21q,#fbb 25q,#ffd4d4 46q,#ffd3d3 48q,#ffc8c8 50q,#f66 56q,#ff5252 60q,#ff6161 62q,#ff7575 63q,#ff9d9d 64q,#f2f2ff 65q,#9292ff 66q,#7171ff 67q,#6161ff 68q,#5a5aff 71q,#6c6cff 73q,#8f8fff 75q,#aaf 76q,#d2d2ff 77q,#eef 78q,#fffcfc 79q,#fee 80q,#ffd8d8 82q,#ffcbcb 83q,#ffa6a6 85q,#ff9090 87q,#f88 89q,#ff9090 91q,#ff9f9f 92q,#ffc7c7 93q,#fffafa 94q,#d0d0ff 95q,#a1a1ff 96q,#8d8dff 97q,#7d7dff 99q,#88f 102q,#a2a2ff 104q,#d0d0ff 106q,#e1e1ff 107q,#ededff 108q,#f5f5ff 109q,#f9f9ff 110q,#fbfbff 112q,#f8f8ff 121q,#fcfcff 156q,#fff 205q,#fefeff 219q,#fff 222q,#fff 263q"></i><i style="--g:#fff 0,#ebebff 6q,#e5e5ff 9q,#e9e9ff 11q,#efefff 12q,#f7f7ff 13q,#fffcfc 14q,#ffd6d6 17q,#ffc5c5 19q,#fbb 22q,#ffc9c9 38q,#ffdada 48q,#ffd4d4 50q,#ffc9c9 51q,#ff7a7a 55q,#ff5f5f 57q,#ff4c4c 60q,#ff5f5f 63q,#ff7575 64q,#ffa1a1 65q,#ebebff 66q,#9090ff 67q,#7171ff 68q,#6363ff 69q,#5f5fff 72q,#7373ff 74q,#9595ff 76q,#d2d2ff 78q,#eaeaff 79q,#fbfbff 80q,#fff5f5 81q,#ffdada 83q,#ff9e9e 86q,#f88 88q,#ff8181 90q,#ff8d8d 92q,#ff9f9f 93q,#ffcaca 94q,#fff 95q,#cbcbff 96q,#9f9fff 97q,#8d8dff 98q,#8080ff 100q,#8686ff 102q,#99f 104q,#d2d2ff 107q,#e0e0ff 108q,#eaeaff 109q,#f0f0ff 110q,#f4f4ff 111q,#f7f7ff 113q,#fcfcff 157q,#fff 209q,#fefeff 221q,#fff 225q,#fff 263q"></i><i style="--g:#fff 0,#e8e8ff 6q,#e1e1ff 9q,#e3e3ff 11q,#e8e8ff 12q,#fafaff 14q,#fff7f7 15q,#ffd4d4 18q,#ffc6c6 20q,#ffbfbf 23q,#ffcfcf 40q,#ffe4e4 49q,#ffe2e2 50q,#ffdbdb 51q,#fcc 52q,#ff8383 55q,#ff5757 58q,#ff4848 61q,#ff5e5e 64q,#f77 65q,#ffa5a5 66q,#e5e5ff 67q,#9090ff 68q,#7474ff 69q,#66f 70q,#66f 73q,#7a7aff 75q,#9c9cff 77q,#d1d1ff 79q,#e5e5ff 80q,#f5f5ff 81q,#fffbfb 82q,#ffd8d8 84q,#ffa6a6 86q,#f88 88q,#ff7c7c 91q,#ff8b8b 93q,#ff9f9f 94q,#fcfcff 96q,#c9c9ff 97q,#a0a0ff 98q,#8f8fff 99q,#8585ff 101q,#8c8cff 103q,#a0a0ff 105q,#d4d4ff 108q,#e8e8ff 110q,#ededff 111q,#f2f2ff 113q,#f9f9ff 137q,#fff 211q,#fefeff 223q,#fff 227q,#fff 263q"></i><i style="--g:#fff 0,#e7e7ff 6q,#ddf 10q,#e2e2ff 12q,#e8e8ff 13q,#fdfdff 15q,#fff5f5 16q,#ffd6d6 19q,#fcc 21q,#ffc7c7 24q,#ffcece 35q,#ffd8d8 42q,#ffe1e1 45q,#fff3f3 49q,#fff4f4 50q,#fff1f1 51q,#ffe7e7 52q,#ffd2d2 53q,#ff9393 55q,#ff7d7d 56q,#ff5151 59q,#f44 62q,#ff5050 64q,#f77 66q,#ffabab 67q,#e2e2ff 68q,#9191ff 69q,#77f 70q,#6b6bff 71q,#6d6dff 74q,#8282ff 76q,#a1a1ff 78q,#cfcfff 80q,#e0e0ff 81q,#fff 83q,#ffebeb 84q,#ff9d9d 87q,#ff8282 89q,#f77 91q,#ff7e7e 93q,#ff9f9f 95q,#fbfbff 97q,#c9c9ff 98q,#a2a2ff 99q,#9393ff 100q,#8a8aff 102q,#9c9cff 105q,#d7d7ff 109q,#e7e7ff 111q,#efefff 113q,#f2f2ff 115q,#f9f9ff 139q,#fff 212q,#fefeff 225q,#fff 229q,#fff 263q"></i><i style="--g:#fff 0,#e2e2ff 7q,#dadaff 10q,#dcdcff 12q,#e1e1ff 13q,#f3f3ff 15q,#fdfdff 16q,#ffecec 18q,#ffdede 20q,#ffd6d6 22q,#ffd2d2 26q,#ffd8d8 36q,#ffe1e1 42q,#ffecec 45q,#fffdfd 48q,#fbfbff 49q,#f6f6ff 50q,#f5f5ff 51q,#fafaff 52q,#fff6f6 53q,#ffdbdb 54q,#ff8f8f 56q,#f55 59q,#ff4242 62q,#ff5050 65q,#ff7a7a 67q,#ffb2b2 68q,#e1e1ff 69q,#9595ff 70q,#7c7cff 71q,#7171ff 72q,#7575ff 75q,#a5a5ff 79q,#ccf 81q,#ebebff 83q,#fefeff 84q,#ffe9e9 85q,#faa 87q,#ff8686 89q,#ff7474 92q,#ff7c7c 94q,#ff9f9f 96q,#ffd0d0 97q,#fafaff 98q,#ccf 99q,#a8a8ff 100q,#99f 101q,#9191ff 103q,#a4a4ff 106q,#c3c3ff 108q,#dadaff 110q,#e8e8ff 112q,#eef 114q,#f1f1ff 116q,#f5f5ff 124q,#fafaff 140q,#fff 213q,#fefeff 227q,#fff 231q,#fff 263q"></i><i style="--g:#fff 0,#dfdfff 8q,#d8d8ff 11q,#dbdbff 13q,#e0e0ff 14q,#fafaff 17q,#fffcfc 18q,#fee 20q,#ffe7e7 22q,#ffe1e1 25q,#ffe0e0 29q,#ffe3e3 36q,#ffeaea 41q,#fff3f3 44q,#fffefe 46q,#f9f9ff 47q,#dbdbff 51q,#dadaff 52q,#e2e2ff 53q,#f6f6ff 54q,#ffe6e6 55q,#ffb3b3 56q,#ff8b8b 57q,#ff5f5f 59q,#ff4747 61q,#ff3f3f 63q,#ff5050 66q,#ff7c7c 68q,#ffb7b7 69q,#e3e3ff 70q,#99f 71q,#8282ff 72q,#77f 73q,#7d7dff 76q,#aaf 80q,#d7d7ff 83q,#e8e8ff 84q,#fefeff 85q,#ffe5e5 86q,#ffa0a0 88q,#ff7f7f 90q,#ff7070 93q,#ff7b7b 95q,#ffa0a0 97q,#fcfcff 99q,#d2d2ff 100q,#b1b1ff 101q,#a0a0ff 102q,#99f 104q,#a4a4ff 106q,#d6d6ff 110q,#e5e5ff 112q,#ececff 114q,#f2f2ff 117q,#f6f6ff 125q,#fafaff 139q,#fff 214q,#fefeff 229q,#fff 232q,#fff 263q"></i><i style="--g:#fff 0,#ddf 9q,#d6d6ff 12q,#ddf 15q,#fcfcff 20q,#fffdfd 21q,#fff7f7 23q,#fff3f3 25q,#fff0f0 31q,#fff5f5 39q,#fffefe 43q,#fdfdff 44q,#f8f8ff 45q,#eaeaff 47q,#c0c0ff 51q,#b9b9ff 52q,#bbf 53q,#c6c6ff 54q,#e0e0ff 55q,#fff2f2 56q,#ffb4b4 57q,#f88 58q,#ff5a5a 60q,#f44 62q,#ff3e3e 64q,#ff5252 67q,#ff8080 69q,#fbb 70q,#e7e7ff 71q,#a1a1ff 72q,#8a8aff 73q,#8080ff 74q,#8686ff 77q,#aaf 81q,#d2d2ff 84q,#e5e5ff 85q,#fff 86q,#f99 89q,#ff7a7a 91q,#ff6e6e 93q,#ff7b7b 96q,#ffa1a1 98q,#fff 100q,#d9d9ff 101q,#bdbdff 102q,#aaf 103q,#a4a4ff 104q,#aaf 106q,#ddf 111q,#e8e8ff 113q,#f2f2ff 117q,#f7f7ff 124q,#fafaff 137q,#fff 199q,#fefeff 211q,#fff 263q"></i><i style="--g:#fff 0,#f4f4ff 4q,#d9d9ff 11q,#d2d2ff 14q,#d6d6ff 16q,#efefff 22q,#f8f8ff 26q,#fcfcff 31q,#fbfbff 37q,#f8f8ff 40q,#f1f1ff 43q,#e1e1ff 46q,#ceceff 48q,#a5a5ff 51q,#99f 53q,#a6a6ff 55q,#c9c9ff 56q,#fff 57q,#ffb6b6 58q,#ff8484 59q,#f55 61q,#ff4141 63q,#ff3d3d 65q,#f55 68q,#ff8383 70q,#ffbebe 71q,#ececff 72q,#adadff 73q,#9393ff 74q,#88f 75q,#88f 77q,#a8a8ff 82q,#bdbdff 84q,#cdcdff 85q,#e3e3ff 86q,#fffdfd 87q,#ffd7d7 88q,#ffacac 89q,#ff9191 90q,#ff8080 91q,#ff6b6b 94q,#ff7b7b 97q,#ffa1a1 99q,#fff9f9 101q,#e2e2ff 102q,#cacaff 103q,#bbf 104q,#b5b5ff 105q,#bbf 107q,#ddf 111q,#e9e9ff 113q,#f3f3ff 117q,#f8f8ff 123q,#fbfbff 135q,#fff 184q,#fff 263q"></i><i style="--g:#fff 0,#f2f2ff 6q,#ebebff 8q,#cacaff 15q,#ccf 18q,#dedeff 24q,#e6e6ff 29q,#eaeaff 35q,#e8e8ff 39q,#e3e3ff 42q,#ddf 44q,#c8c8ff 47q,#9797ff 51q,#88f 54q,#9393ff 56q,#b0b0ff 57q,#f1f1ff 58q,#ffb9b9 59q,#ff8181 60q,#f55 62q,#ff3d3d 65q,#ff4242 67q,#f55 69q,#f88 71q,#ffc1c1 72q,#f3f3ff 73q,#bbf 74q,#9d9dff 75q,#9393ff 76q,#9292ff 78q,#aaf 84q,#c8c8ff 86q,#e2e2ff 87q,#fff9f9 88q,#ffa2a2 90q,#ff7b7b 92q,#ff6a6a 95q,#ff7c7c 98q,#ffa2a2 100q,#fff3f3 102q,#ededff 103q,#d8d8ff 104q,#cbcbff 105q,#c6c6ff 106q,#ccf 108q,#eaeaff 113q,#f3f3ff 116q,#f8f8ff 120q,#fbfbff 126q,#fff 162q,#fff 263q"></i><i style="--g:#fff 0,#fcfcff 4q,#f6f6ff 7q,#eef 9q,#e2e2ff 11q,#c3c3ff 15q,#bbf 17q,#bdbdff 20q,#ceceff 27q,#d5d5ff 32q,#d6d6ff 40q,#d0d0ff 43q,#c7c7ff 45q,#b8b8ff 47q,#8c8cff 51q,#77f 54q,#7b7bff 56q,#8585ff 57q,#9c9cff 58q,#e3e3ff 59q,#fbb 60q,#ff7f7f 61q,#ff5151 63q,#ff3d3d 66q,#f44 68q,#ff5b5b 70q,#ff8b8b 72q,#fafaff 74q,#cacaff 75q,#aaf 76q,#99f 78q,#9d9dff 83q,#a3a3ff 85q,#aeaeff 86q,#c3c3ff 87q,#e1e1ff 88q,#fff5f5 89q,#ff9b9b 91q,#f77 93q,#ff6969 96q,#ff7d7d 99q,#ffa2a2 101q,#ffecec 103q,#f8f8ff 104q,#e5e5ff 105q,#dbdbff 106q,#d7d7ff 108q,#eef 113q,#f6f6ff 116q,#fbfbff 120q,#fdfdff 125q,#fff 135q,#fff 263q"></i><i style="--g:#fff 0,#fffefe 4q,#fff 6q,#fefeff 7q,#fbfbff 8q,#f1f1ff 10q,#e1e1ff 12q,#bfbfff 15q,#aaf 18q,#aaf 21q,#c2c2ff 33q,#c5c5ff 40q,#b8b8ff 45q,#7474ff 53q,#6a6aff 56q,#7979ff 58q,#9090ff 59q,#d6d6ff 60q,#ffbebe 61q,#ff7d7d 62q,#ff5050 64q,#ff3f3f 67q,#ff4747 69q,#ff5f5f 71q,#ff8e8e 73q,#fffdfd 75q,#d7d7ff 76q,#bbf 77q,#aaf 78q,#a2a2ff 79q,#99f 84q,#9d9dff 86q,#a6a6ff 87q,#bebeff 88q,#e1e1ff 89q,#fff1f1 90q,#ffbebe 91q,#ff9595 92q,#ff7474 94q,#ff6969 96q,#ff7474 99q,#ff8e8e 101q,#ffa2a2 102q,#ffe4e4 104q,#fffbfb 105q,#f3f3ff 106q,#eaeaff 107q,#e6e6ff 109q,#f8f8ff 115q,#fff 120q,#fffefe 144q,#fff 149q,#fff 263q"></i><i style="--g:#fff 0,#fffafa 3q,#fff7f7 6q,#fff9f9 8q,#fffdfd 9q,#fcfcff 10q,#e9e9ff 12q,#b0b0ff 16q,#a5a5ff 17q,#9e9eff 19q,#a0a0ff 24q,#b4b4ff 36q,#b5b5ff 41q,#aaf 45q,#99f 48q,#66f 54q,#6060ff 57q,#7070ff 59q,#88f 60q,#c9c9ff 61q,#ffc2c2 62q,#ff7d7d 63q,#ff5050 65q,#ff4141 68q,#ff4a4a 70q,#ff6363 72q,#ff9393 74q,#fff7f7 76q,#e2e2ff 77q,#c8c8ff 78q,#aaf 80q,#9393ff 85q,#9696ff 87q,#a0a0ff 88q,#b9b9ff 89q,#e1e1ff 90q,#ffeded 91q,#ffb7b7 92q,#ff9191 93q,#ff7272 95q,#ff6a6a 98q,#ff8181 101q,#ffa2a2 103q,#fdd 105q,#fff1f1 106q,#fff 107q,#f8f8ff 108q,#f4f4ff 109q,#f4f4ff 110q,#fff 116q,#fffcfc 120q,#fffbfb 126q,#fff 192q,#fff 263q"></i><i style="--g:#fff 0,#fff3f3 4q,#ffefef 7q,#fff2f2 9q,#fff 11q,#f3f3ff 12q,#aeaeff 16q,#a2a2ff 17q,#99f 19q,#a7a7ff 42q,#9b9bff 47q,#5c5cff 55q,#55f 58q,#6868ff 60q,#7f7fff 61q,#bdbdff 62q,#ffc7c7 63q,#ff7d7d 64q,#ff5151 66q,#f44 68q,#ff5a5a 72q,#ff7c7c 74q,#ff9797 75q,#fff2f2 77q,#eaeaff 78q,#d1d1ff 79q,#bebeff 80q,#a3a3ff 82q,#8f8fff 85q,#8c8cff 87q,#9a9aff 89q,#b4b4ff 90q,#e0e0ff 91q,#ffeaea 92q,#ffb1b1 93q,#ff8f8f 94q,#ff7272 96q,#ff6c6c 99q,#ff8383 102q,#ffa3a3 104q,#ffd6d6 106q,#ffe8e8 107q,#fff3f3 108q,#fffafa 109q,#fffefe 110q,#fff 111q,#fffafa 117q,#fff8f8 123q,#fffcfc 158q,#fffefe 215q,#fff 219q,#fffefe 234q,#fff 263q"></i><i style="--g:#fff 0,#ffeaea 5q,#ffe5e5 8q,#ffebeb 10q,#fff4f4 11q,#fff 12q,#eef 13q,#b0b0ff 16q,#a1a1ff 17q,#9595ff 19q,#9191ff 23q,#9f9fff 37q,#a0a0ff 44q,#9494ff 48q,#5959ff 55q,#4d4dff 58q,#55f 60q,#7979ff 62q,#b2b2ff 63q,#fcc 64q,#ff7e7e 65q,#ff5353 67q,#ff4747 69q,#ff6060 73q,#ff8282 75q,#ff9b9b 76q,#ffefef 78q,#f0f0ff 79q,#d7d7ff 80q,#a0a0ff 83q,#88f 86q,#8b8bff 89q,#9696ff 90q,#afafff 91q,#dfdfff 92q,#ffe8e8 93q,#ffaeae 94q,#ff8d8d 95q,#ff7272 97q,#ff6c6c 99q,#ff7c7c 102q,#ff9494 104q,#ffa4a4 105q,#ffd1d1 107q,#ffe0e0 108q,#ffeaea 109q,#fff4f4 111q,#fff6f6 113q,#fff5f5 122q,#fffbfb 162q,#fffdfd 217q,#fff 223q,#fffefe 236q,#fff 263q"></i><i style="--g:#fff 0,#ffe4e4 5q,#ffdbdb 8q,#ffdfdf 10q,#ffe7e7 11q,#fff3f3 12q,#fafaff 13q,#a3a3ff 17q,#9494ff 19q,#8e8eff 22q,#9d9dff 39q,#9b9bff 46q,#8f8fff 49q,#5858ff 55q,#44f 59q,#5050ff 61q,#7474ff 63q,#a8a8ff 64q,#ffd4d4 65q,#ff8181 66q,#f66 67q,#ff4c4c 70q,#ff5a5a 73q,#ff7575 75q,#ffa0a0 77q,#fee 79q,#f3f3ff 80q,#aaf 83q,#88f 86q,#8080ff 89q,#9191ff 91q,#aaf 92q,#ddf 93q,#ffe7e7 94q,#ffadad 95q,#ff8d8d 96q,#ff7474 98q,#ff6f6f 100q,#ff8080 103q,#ff9797 105q,#ffcdcd 108q,#ffe3e3 110q,#ffe8e8 111q,#fee 113q,#fff7f7 139q,#fffbfb 169q,#fffdfd 220q,#fff 226q,#fffefe 238q,#fff 263q"></i><i style="--g:#fff 0,#ffdfdf 5q,#ffd2d2 8q,#ffd4d4 10q,#ffdbdb 11q,#ffe6e6 12q,#fff7f7 13q,#f2f2ff 14q,#c1c1ff 16q,#aaf 17q,#9e9eff 18q,#9292ff 20q,#8e8eff 23q,#9d9dff 46q,#9494ff 49q,#5050ff 56q,#4141ff 60q,#5959ff 63q,#7171ff 64q,#a1a1ff 65q,#fdd 66q,#ff8585 67q,#ff6969 68q,#f55 70q,#f55 72q,#ff6161 74q,#ff7b7b 76q,#ffa6a6 78q,#ffcdcd 79q,#fee 80q,#f3f3ff 81q,#a3a3ff 84q,#8080ff 87q,#7a7aff 90q,#8d8dff 92q,#a4a4ff 93q,#dbdbff 94q,#ffe8e8 95q,#ffaeae 96q,#ff8f8f 97q,#ff8080 98q,#ff7373 100q,#f77 102q,#ff8f8f 105q,#ffcbcb 109q,#fdd 111q,#ffe6e6 113q,#ffeaea 115q,#fff0f0 124q,#fff7f7 141q,#fffbfb 170q,#fffdfd 221q,#fff 231q,#fffefe 240q,#fff 263q"></i><i style="--g:#fff 0,#ffdbdb 5q,#ffcfcf 7q,#ffc9c9 9q,#ffcfcf 11q,#ffd9d9 12q,#ffe9e9 13q,#fffefe 14q,#a6a6ff 18q,#9797ff 20q,#9191ff 24q,#a2a2ff 47q,#9595ff 50q,#5353ff 56q,#3b3bff 60q,#4040ff 62q,#55f 64q,#6e6eff 65q,#9c9cff 66q,#ffe7e7 67q,#ff8b8b 68q,#ff6e6e 69q,#ff6060 70q,#ff5a5a 73q,#ff7474 76q,#ff9494 78q,#ffaeae 79q,#fff0f0 81q,#f0f0ff 82q,#9c9cff 85q,#8181ff 87q,#7373ff 90q,#7c7cff 92q,#88f 93q,#a1a1ff 94q,#d7d7ff 95q,#ffecec 96q,#ffb3b3 97q,#ff9292 98q,#ff8383 99q,#f77 101q,#ff7c7c 103q,#ff9494 106q,#ffcbcb 110q,#ffdada 112q,#ffe3e3 114q,#ffe8e8 117q,#ffefef 126q,#fff6f6 142q,#fffbfb 174q,#fff 263q"></i><i style="--g:#fff 0,#ffd2d2 6q,#ffc6c6 8q,#ffc2c2 10q,#ffcdcd 12q,#ffdbdb 13q,#ffeded 14q,#fafaff 15q,#ccf 17q,#aaf 19q,#a1a1ff 20q,#99f 23q,#99f 27q,#b0b0ff 48q,#9b9bff 51q,#4d4dff 57q,#3737ff 61q,#3d3dff 63q,#55f 65q,#6c6cff 66q,#9797ff 67q,#fff3f3 68q,#ff9393 69q,#ff7474 70q,#f66 71q,#ff5e5e 73q,#ff7070 76q,#ff9a9a 79q,#fff4f4 82q,#ebebff 83q,#aaf 85q,#8585ff 87q,#7373ff 89q,#6e6eff 91q,#77f 93q,#9d9dff 95q,#d2d2ff 96q,#fff2f2 97q,#fbb 98q,#f99 99q,#f88 100q,#ff7e7e 102q,#ff9191 106q,#fcc 111q,#ffdada 113q,#ffe1e1 115q,#ffe7e7 118q,#ffefef 127q,#fff6f6 143q,#fffbfb 175q,#fff 263q"></i><i style="--g:#fff 0,#ffd1d1 6q,#ffc3c3 8q,#fbb 10q,#ffc2c2 12q,#ffcdcd 13q,#fff0f0 15q,#f8f8ff 16q,#d0d0ff 18q,#b6b6ff 20q,#a8a8ff 22q,#a3a3ff 25q,#a5a5ff 31q,#c8c8ff 47q,#c9c9ff 49q,#c4c4ff 50q,#b8b8ff 51q,#55f 57q,#33f 62q,#3b3bff 64q,#55f 66q,#6a6aff 67q,#9494ff 68q,#fefeff 69q,#ff9e9e 70q,#ff7d7d 71q,#ff6e6e 72q,#f66 74q,#f77 77q,#ffa0a0 80q,#fff9f9 83q,#e5e5ff 84q,#9f9fff 86q,#7474ff 89q,#6a6aff 92q,#77f 94q,#99f 96q,#ccf 97q,#fff9f9 98q,#ffc6c6 99q,#ff9f9f 100q,#ff9090 101q,#ff8686 103q,#f99 107q,#ffc7c7 111q,#ffdbdb 114q,#ffe4e4 117q,#ffe9e9 120q,#fff0f0 129q,#fff6f6 144q,#fffbfb 177q,#fff 263q"></i><i style="--g:#fff 0,#ffcaca 7q,#ffbdbd 9q,#ffb7b7 11q,#ffc1c1 13q,#fcc 14q,#fefeff 17q,#ededff 18q,#d3d3ff 20q,#c5c5ff 22q,#bbf 25q,#bbf 31q,#c8c8ff 39q,#d6d6ff 44q,#e7e7ff 48q,#e9e9ff 50q,#e3e3ff 51q,#d5d5ff 52q,#bbf 53q,#9c9cff 54q,#7070ff 56q,#44f 59q,#33f 63q,#3a3aff 65q,#55f 67q,#6a6aff 68q,#9090ff 69q,#f0f0ff 70q,#ffaeae 71q,#ff8686 72q,#f77 73q,#ff6f6f 75q,#ff8080 78q,#ffa6a6 81q,#ffdede 83q,#fffefe 84q,#ddf 85q,#b5b5ff 86q,#9696ff 87q,#77f 89q,#66f 92q,#7373ff 95q,#9696ff 97q,#c4c4ff 98q,#fbfbff 99q,#ffd3d3 100q,#ffacac 101q,#f99 102q,#ff8f8f 104q,#ffa2a2 108q,#ffcece 112q,#ffdede 115q,#ffebeb 121q,#fff2f2 130q,#fff7f7 145q,#fffcfc 179q,#fff 263q"></i><i style="--g:#fff 0,#ffbfbf 9q,#ffb4b4 12q,#ffbdbd 14q,#ffc7c7 15q,#fffefe 19q,#e7e7ff 22q,#dcdcff 25q,#d8d8ff 29q,#dcdcff 36q,#e6e6ff 41q,#f1f1ff 44q,#fcfcff 46q,#fffbfb 47q,#fee 49q,#ffebeb 50q,#ffebeb 51q,#fff3f3 52q,#f9f9ff 53q,#dadaff 54q,#aaf 55q,#88f 56q,#4d4dff 59q,#3030ff 63q,#3a3aff 66q,#55f 68q,#6a6aff 69q,#8e8eff 70q,#e3e3ff 71q,#ffc3c3 72q,#ff9292 73q,#ff8181 74q,#ff7979 76q,#ff9090 80q,#ffabab 82q,#ffe2e2 84q,#fafaff 85q,#a9a9ff 87q,#7e7eff 89q,#6969ff 91q,#6262ff 93q,#7171ff 96q,#9393ff 98q,#bbf 99q,#efefff 100q,#ffe2e2 101q,#ffbfbf 102q,#ffa7a7 103q,#ff9b9b 105q,#ffa8a8 108q,#ffcfcf 112q,#ffdfdf 115q,#ffecec 121q,#fff3f3 129q,#fff8f8 142q,#fffcfc 178q,#fffdfd 213q,#fff 218q,#fffdfd 231q,#fff 239q,#fff 263q"></i><i style="--g:#fff 0,#ffefef 3q,#ffb7b7 11q,#ffafaf 13q,#fbb 16q,#ffeaea 21q,#fff5f5 23q,#fff 26q,#fafaff 29q,#f8f8ff 32q,#fafaff 36q,#fff 39q,#fffbfb 41q,#fff3f3 43q,#ffe9e9 45q,#ffb9b9 51q,#ffb9b9 52q,#ffc3c3 53q,#ffdada 54q,#fefeff 55q,#8f8fff 57q,#7171ff 58q,#4c4cff 60q,#2f2fff 64q,#44f 68q,#6a6aff 70q,#8c8cff 71q,#d7d7ff 72q,#ffd7d7 73q,#ffa0a0 74q,#ff8d8d 75q,#ff8484 78q,#ff9494 81q,#ffaeae 83q,#ffc7c7 84q,#ffe5e5 85q,#f5f5ff 86q,#9f9fff 88q,#77f 90q,#66f 92q,#5f5fff 94q,#6f6fff 97q,#9090ff 99q,#b3b3ff 100q,#e3e3ff 101q,#fff2f2 102q,#ffd3d3 103q,#ffbdbd 104q,#ffb1b1 105q,#ffadad 106q,#ffb4b4 108q,#ffd9d9 113q,#ffe6e6 116q,#fff1f1 122q,#fff6f6 130q,#fffafa 144q,#fffdfd 180q,#fffefe 214q,#fff 217q,#fffefe 233q,#fff 238q,#fff 263q"></i><i style="--g:#fff 0,#ffeaea 5q,#fdd 7q,#ffa5a5 14q,#ffa7a7 17q,#ffd1d1 24q,#fdd 28q,#ffe4e4 33q,#ffe3e3 37q,#ffdede 40q,#ffd3d3 43q,#ffc8c8 45q,#ffa0a0 49q,#ff9191 52q,#ff9797 54q,#ffa9a9 55q,#ffd7d7 56q,#e4e4ff 57q,#99f 58q,#7373ff 59q,#5c5cff 60q,#3f3fff 62q,#2f2fff 65q,#4747ff 69q,#6c6cff 71q,#8b8bff 72q,#ccf 73q,#ffe9e9 74q,#ffb3b3 75q,#f99 76q,#ff8b8b 78q,#ff9797 82q,#ffaeae 84q,#ffc7c7 85q,#ffe7e7 86q,#f0f0ff 87q,#99f 89q,#7373ff 91q,#5e5eff 94q,#6e6eff 98q,#8e8eff 100q,#aaf 101q,#d6d6ff 102q,#fbfbff 103q,#ffe7e7 104q,#ffd4d4 105q,#ffc9c9 106q,#ffc5c5 107q,#ffc9c9 109q,#ffe0e0 113q,#ffebeb 116q,#fff5f5 122q,#fff9f9 129q,#fffcfc 142q,#fff 185q,#fff 263q"></i><i style="--g:#fff 0,#fff9f9 3q,#ffeeee 6q,#ffdada 9q,#faa 13q,#ff9b9b 15q,#f99 19q,#fbb 30q,#ffc1c1 37q,#ffb7b7 42q,#ff7979 53q,#ff7f7f 55q,#ff8c8c 56q,#faa 57q,#fff7f7 58q,#a6a6ff 59q,#77f 60q,#5c5cff 61q,#3e3eff 63q,#3030ff 66q,#4949ff 70q,#6e6eff 72q,#8b8bff 73q,#c4c4ff 74q,#fff8f8 75q,#ffc7c7 76q,#ffa5a5 77q,#ff9393 79q,#ff9393 82q,#ff9d9d 84q,#faa 85q,#ffc4c4 86q,#ffe7e7 87q,#ededff 88q,#bbf 89q,#9494ff 90q,#7070ff 92q,#5f5fff 94q,#5c5cff 96q,#66f 98q,#7b7bff 100q,#a2a2ff 102q,#eaeaff 104q,#fffbfb 105q,#ffeaea 106q,#ffe0e0 107q,#ffdbdb 109q,#fff2f2 116q,#fffafa 122q,#fff 141q,#fff 263q"></i><i style="--g:#fff 0,#fff 4q,#fffbfb 6q,#fff7f7 7q,#ffeaea 9q,#ffd2d2 11q,#ffa0a0 14q,#ff8b8b 17q,#f88 20q,#ffa0a0 33q,#ffa1a1 39q,#ff9797 44q,#ff6d6d 52q,#ff6868 55q,#f77 57q,#ff8f8f 58q,#ffd2d2 59q,#c0c0ff 60q,#7c7cff 61q,#4b4bff 63q,#33f 67q,#4d4dff 71q,#7070ff 73q,#8c8cff 74q,#bfbfff 75q,#fbfbff 76q,#ffd5d5 77q,#ffb5b5 78q,#ffa1a1 79q,#f99 80q,#ff9292 83q,#ffa4a4 86q,#ffc0c0 87q,#ffe5e5 88q,#ebebff 89q,#b6b6ff 90q,#9090ff 91q,#6d6dff 93q,#5b5bff 96q,#6e6eff 100q,#9d9dff 103q,#dbdbff 105q,#f1f1ff 106q,#fffefe 107q,#fff4f4 108q,#fff0f0 109q,#fee 110q,#fffafa 116q,#fff 120q,#fdfdff 143q,#fff 177q,#fff 263q"></i><i style="--g:#fff 0,#f8f8ff 3q,#f5f5ff 5q,#f8f8ff 7q,#fcfcff 8q,#fffbfb 9q,#fff0f0 10q,#ffe2e2 11q,#ffa1a1 14q,#ff8a8a 16q,#ff7e7e 20q,#ff9090 34q,#ff9090 41q,#ff8484 46q,#ff5959 55q,#ff5f5f 57q,#ff7d7d 59q,#ffacac 60q,#ddf 61q,#8383ff 62q,#6161ff 63q,#4d4dff 64q,#3939ff 66q,#33f 68q,#5151ff 72q,#7474ff 74q,#8e8eff 75q,#bdbdff 76q,#f4f4ff 77q,#ffdfdf 78q,#ffbebe 79q,#ffa6a6 80q,#ff9b9b 81q,#ff8f8f 84q,#ff9494 86q,#ff9f9f 87q,#ffb8b8 88q,#ffe1e1 89q,#ebebff 90q,#b2b2ff 91q,#8d8dff 92q,#6c6cff 94q,#5d5dff 98q,#6f6fff 101q,#99f 104q,#ccf 106q,#e0e0ff 107q,#eef 108q,#f7f7ff 109q,#fff 111q,#fff 113q,#fafaff 118q,#f8f8ff 125q,#fcfcff 159q,#fefeff 212q,#fff 216q,#fefeff 232q,#fff 239q,#fff 263q"></i><i style="--g:#fff 0,#f1f1ff 3q,#e8e8ff 6q,#eaeaff 8q,#f0f0ff 9q,#fafaff 10q,#fff4f4 11q,#ffdfdf 12q,#ffa6a6 14q,#f88 16q,#ff7a7a 18q,#f77 21q,#ff8585 35q,#ff8484 42q,#f77 47q,#ff4e4e 56q,#ff5d5d 59q,#ff6f6f 60q,#ff9393 61q,#fbfbff 62q,#8c8cff 63q,#66f 64q,#5050ff 65q,#3c3cff 67q,#3838ff 69q,#55f 73q,#77f 75q,#9292ff 76q,#f2f2ff 78q,#ffe2e2 79q,#ffc1c1 80q,#ffa6a6 81q,#ff9191 83q,#f88 85q,#ff8e8e 87q,#f99 88q,#ffafaf 89q,#ffdbdb 90q,#eef 91q,#b2b2ff 92q,#8c8cff 93q,#6b6bff 95q,#5d5dff 98q,#6868ff 101q,#88f 104q,#d2d2ff 108q,#e7e7ff 110q,#efefff 112q,#f1f1ff 114q,#fafaff 159q,#fdfdff 214q,#fff 223q,#fdfdff 233q,#fff 247q,#fefeff 263q"></i><i style="--g:#fff 0,#e3e3ff 4q,#d7d7ff 7q,#dcdcff 9q,#e5e5ff 10q,#f5f5ff 11q,#fff3f3 12q,#f99 15q,#ff7e7e 17q,#ff7171 20q,#ff7e7e 42q,#ff7373 47q,#ff4848 55q,#ff4a4a 59q,#f66 61q,#ff8484 62q,#ffe3e3 63q,#99f 64q,#6b6bff 65q,#55f 66q,#3d3dff 69q,#4646ff 72q,#5b5bff 74q,#7e7eff 76q,#9797ff 77q,#f5f5ff 79q,#ffe0e0 80q,#ffa2a2 82q,#ff8c8c 84q,#ff8383 86q,#f88 88q,#ffa4a4 90q,#ffd3d3 91q,#f3f3ff 92q,#b5b5ff 93q,#8d8dff 94q,#6c6cff 96q,#5f5fff 99q,#6b6bff 102q,#88f 105q,#c7c7ff 109q,#dadaff 111q,#e5e5ff 114q,#ededff 123q,#f4f4ff 139q,#f9f9ff 162q,#fbfbff 188q,#fefeff 226q,#fefeff 263q"></i><i style="--g:#fff 0,#dbdbff 4q,#c8c8ff 7q,#c8c8ff 9q,#d0d0ff 10q,#dfdfff 11q,#f6f6ff 12q,#ffeaea 13q,#ff9f9f 15q,#ff8c8c 16q,#f77 18q,#ff6e6e 21q,#f77 44q,#ff6d6d 48q,#ff3c3c 58q,#ff4c4c 61q,#f77 63q,#ffc3c3 64q,#adadff 65q,#7373ff 66q,#4d4dff 68q,#44f 72q,#7171ff 76q,#9f9fff 78q,#fdfdff 80q,#ffb5b5 82q,#ff9c9c 83q,#ff8e8e 84q,#ff7c7c 87q,#ff8080 89q,#ff9c9c 91q,#ffc8c8 92q,#fafaff 93q,#bbf 94q,#9090ff 95q,#6e6eff 97q,#6262ff 100q,#7f7fff 105q,#bfbfff 110q,#d1d1ff 112q,#dadaff 114q,#e0e0ff 117q,#ebebff 128q,#f2f2ff 141q,#f8f8ff 164q,#fbfbff 190q,#fdfdff 228q,#fefeff 263q"></i><i style="--g:#fff 0,#d3d3ff 4q,#c1c1ff 6q,#b6b6ff 8q,#bbf 10q,#c9c9ff 11q,#dfdfff 12q,#fefeff 13q,#ffdada 14q,#ffafaf 15q,#ff9393 16q,#ff8484 17q,#ff7474 19q,#ff6d6d 22q,#f77 45q,#f33 59q,#ff3c3c 61q,#f55 63q,#ff6e6e 64q,#ffa3a3 65q,#ccf 66q,#7d7dff 67q,#6161ff 68q,#4b4bff 70q,#4949ff 72q,#6969ff 76q,#8c8cff 78q,#aaf 79q,#dbdbff 80q,#fff6f6 81q,#ffa7a7 83q,#ff8686 85q,#ff7474 88q,#ff7979 90q,#ff9494 92q,#ffbcbc 93q,#fff9f9 94q,#c4c4ff 95q,#9494ff 96q,#7272ff 98q,#66f 101q,#8383ff 106q,#c3c3ff 112q,#d3d3ff 115q,#ddf 119q,#e4e4ff 124q,#efefff 139q,#f6f6ff 160q,#fbfbff 206q,#fefeff 263q"></i><i style="--g:#fff 0,#c2c2ff 5q,#aeaeff 7q,#a6a6ff 9q,#b4b4ff 11q,#c8c8ff 12q,#e5e5ff 13q,#fff3f3 14q,#ffa0a0 16q,#ff8080 18q,#ff6f6f 23q,#f77 45q,#ff6d6d 49q,#ff3c3c 56q,#ff3030 60q,#ff3838 62q,#ff4f4f 64q,#f66 65q,#ff9393 66q,#eef 67q,#8a8aff 68q,#6a6aff 69q,#5b5bff 70q,#5050ff 72q,#66f 76q,#9696ff 79q,#bcbcff 80q,#ebebff 81q,#ffe7e7 82q,#ffbdbd 83q,#ff9b9b 84q,#ff7e7e 86q,#ff6d6d 89q,#ff7c7c 92q,#ff8d8d 93q,#ffaeae 94q,#ffeded 95q,#d1d1ff 96q,#9b9bff 97q,#77f 99q,#6c6cff 102q,#88f 107q,#c1c1ff 113q,#d0d0ff 116q,#dcdcff 121q,#e3e3ff 126q,#efefff 141q,#f6f6ff 162q,#fbfbff 209q,#fdfdff 263q"></i><i style="--g:#fff 0,#bdbdff 5q,#a1a1ff 8q,#a3a3ff 11q,#b2b2ff 12q,#ccf 13q,#eef 14q,#ffe7e7 15q,#fbb 16q,#ff9b9b 17q,#ff8b8b 18q,#ff7b7b 20q,#ff7575 23q,#ff7d7d 46q,#ff6f6f 50q,#ff3e3e 56q,#ff2b2b 60q,#f33 63q,#ff4b4b 65q,#ff6161 66q,#f88 67q,#ffefef 68q,#9b9bff 69q,#77f 70q,#66f 71q,#5959ff 73q,#6e6eff 77q,#8b8bff 79q,#a2a2ff 80q,#fcfcff 82q,#ffd6d6 83q,#faa 84q,#ff8181 86q,#ff6e6e 88q,#f66 90q,#f77 93q,#ff8686 94q,#ffa1a1 95q,#fdd 96q,#e1e1ff 97q,#a7a7ff 98q,#8d8dff 99q,#7f7fff 100q,#7373ff 103q,#8585ff 107q,#c2c2ff 114q,#d0d0ff 117q,#dcdcff 122q,#e4e4ff 128q,#efefff 142q,#f5f5ff 162q,#fcfcff 211q,#fdfdff 263q"></i><i style="--g:#fff 0,#aeaeff 6q,#99f 9q,#a0a0ff 12q,#b3b3ff 13q,#d1d1ff 14q,#f6f6ff 15q,#ffe1e1 16q,#fbb 17q,#ff9e9e 18q,#f88 20q,#ff7f7f 23q,#f88 47q,#ff7b7b 50q,#ff3a3a 57q,#ff2828 61q,#f33 64q,#ff4848 66q,#ff7d7d 68q,#ffcfcf 69q,#bbf 70q,#8383ff 71q,#7070ff 72q,#6363ff 75q,#8585ff 79q,#9696ff 80q,#b6b6ff 81q,#e2e2ff 82q,#fff0f0 83q,#ffc2c2 84q,#ff9b9b 85q,#f88 86q,#ff6e6e 88q,#ff6161 91q,#ff6868 93q,#ff8080 95q,#f99 96q,#fcc 97q,#f4f4ff 98q,#bcbcff 99q,#9898ff 100q,#8080ff 102q,#7b7bff 104q,#8d8dff 108q,#bfbfff 114q,#ceceff 117q,#dfdfff 124q,#ececff 137q,#f1f1ff 147q,#f8f8ff 175q,#fcfcff 213q,#fdfdff 263q"></i><i style="--g:#fff 0,#afafff 6q,#a3a3ff 7q,#9595ff 10q,#9f9fff 13q,#b3b3ff 14q,#f4f4ff 16q,#ffe8e8 17q,#ffcaca 18q,#ffb0b0 19q,#ffa0a0 20q,#ff9393 22q,#ff8d8d 26q,#f99 48q,#ff8686 51q,#ff3737 58q,#ff2525 62q,#ff3838 66q,#ff5959 68q,#f77 69q,#ffb2b2 70q,#dfdfff 71q,#9595ff 72q,#7d7dff 73q,#7272ff 74q,#7171ff 77q,#8282ff 79q,#a3a3ff 81q,#f4f4ff 83q,#fdd 84q,#ffaeae 85q,#ff9090 86q,#ff7e7e 87q,#f66 89q,#ff5c5c 92q,#ff6c6c 95q,#ff8f8f 97q,#ffbaba 98q,#fff5f5 99q,#d4d4ff 100q,#a8a8ff 101q,#9595ff 102q,#8b8bff 103q,#8686ff 105q,#9797ff 109q,#c0c0ff 114q,#d0d0ff 117q,#e1e1ff 124q,#ededff 136q,#f3f3ff 147q,#f9f9ff 176q,#fdfdff 216q,#fdfdff 263q"></i><i style="--g:#fff 0,#a7a7ff 7q,#9292ff 11q,#9595ff 13q,#adadff 15q,#fefeff 18q,#ffd7d7 20q,#ffbebe 22q,#ffb0b0 24q,#ffa8a8 27q,#ffa8a8 32q,#ffc6c6 48q,#fbb 50q,#ff4b4b 57q,#ff2e2e 60q,#f22 63q,#ff2e2e 66q,#f55 69q,#ff7171 70q,#ff9d9d 71q,#fffefe 72q,#afafff 73q,#8c8cff 74q,#7f7fff 75q,#7979ff 77q,#8c8cff 80q,#99f 81q,#b4b4ff 82q,#dadaff 83q,#fffafa 84q,#ff9f9f 86q,#f88 87q,#ff6a6a 89q,#ff5858 93q,#ff6060 95q,#f77 97q,#f88 98q,#ffa6a6 99q,#ffdfdf 100q,#ededff 101q,#c5c5ff 102q,#a6a6ff 103q,#99f 104q,#9494ff 106q,#a4a4ff 110q,#c5c5ff 114q,#d4d4ff 117q,#dfdfff 121q,#e6e6ff 125q,#f0f0ff 137q,#f5f5ff 148q,#fafaff 179q,#fdfdff 218q,#fefeff 263q"></i><i style="--g:#fff 0,#e0e0ff 3q,#a4a4ff 8q,#9292ff 11q,#8e8eff 13q,#9f9fff 16q,#e6e6ff 20q,#fff 22q,#fff6f6 23q,#ffeaea 25q,#ffe1e1 28q,#fdd 31q,#ffe0e0 36q,#ffe9e9 41q,#fffdfd 46q,#fdfdff 47q,#f7f7ff 49q,#fafaff 50q,#fffcfc 51q,#ffeaea 52q,#ffcdcd 53q,#ffa3a3 54q,#f88 55q,#ff4040 59q,#f22 64q,#ff2e2e 67q,#f44 69q,#ff6e6e 71q,#ff9292 72q,#ffe1e1 73q,#d1d1ff 74q,#9f9fff 75q,#8e8eff 76q,#8585ff 78q,#8c8cff 80q,#a4a4ff 82q,#e8e8ff 84q,#ffecec 85q,#ffbdbd 86q,#ff9595 87q,#f66 90q,#ff5858 92q,#ff5757 95q,#ff7171 98q,#ff9a9a 100q,#fff7f7 102q,#e2e2ff 103q,#c6c6ff 104q,#b3b3ff 105q,#a6a6ff 107q,#acacff 109q,#ceceff 114q,#dbdbff 117q,#eaeaff 124q,#f2f2ff 134q,#f7f7ff 147q,#fcfcff 181q,#fdfdff 213q,#fff 221q,#fdfdff 233q,#fff 245q,#fefeff 263q"></i><i style="--g:#fff 0,#dfdfff 4q,#cbcbff 6q,#a4a4ff 9q,#88f 14q,#8a8aff 16q,#9b9bff 19q,#c2c2ff 23q,#d6d6ff 26q,#e5e5ff 31q,#e7e7ff 35q,#e3e3ff 39q,#d6d6ff 43q,#acacff 50q,#aeaeff 51q,#b7b7ff 52q,#ccf 53q,#ededff 54q,#ffdede 55q,#ff9e9e 56q,#ff7b7b 57q,#ff4f4f 59q,#ff2d2d 62q,#f22 65q,#ff2f2f 68q,#f44 70q,#ff6c6c 72q,#ff8c8c 73q,#ffcbcb 74q,#ededff 75q,#babaff 76q,#9d9dff 77q,#9393ff 78q,#9090ff 80q,#9d9dff 82q,#afafff 83q,#ccf 84q,#f1f1ff 85q,#ffe1e1 86q,#ffb0b0 87q,#ff8e8e 88q,#ff6c6c 90q,#ff5252 94q,#ff6363 98q,#ff9191 101q,#ffb2b2 102q,#fdd 103q,#fff 104q,#e5e5ff 105q,#d4d4ff 106q,#c9c9ff 107q,#c5c5ff 109q,#dedeff 115q,#e7e7ff 118q,#f0f0ff 124q,#f6f6ff 132q,#fafaff 145q,#fdfdff 184q,#fefeff 214q,#fff 217q,#fefeff 237q,#fff 242q,#fff 263q"></i><i style="--g:#fff 0,#ebebff 4q,#d1d1ff 7q,#9b9bff 11q,#7f7fff 15q,#7e7eff 18q,#9f9fff 28q,#acacff 35q,#a2a2ff 42q,#8383ff 50q,#8585ff 53q,#8e8eff 54q,#a2a2ff 55q,#dcdcff 56q,#ffd4d4 57q,#ff8c8c 58q,#ff6a6a 59q,#f44 61q,#ff2e2e 63q,#ff2525 66q,#ff4747 71q,#ff6b6b 73q,#f88 74q,#fbb 75q,#fffcfc 76q,#d0d0ff 77q,#aeaeff 78q,#9d9dff 79q,#9898ff 80q,#a1a1ff 83q,#b4b4ff 84q,#d1d1ff 85q,#f6f6ff 86q,#ffdbdb 87q,#ffa7a7 88q,#f77 90q,#ff5e5e 92q,#ff5151 95q,#ff5959 98q,#ff6c6c 100q,#ffa0a0 103q,#ffe4e4 105q,#fffcfc 106q,#f2f2ff 107q,#e8e8ff 108q,#e1e1ff 110q,#f2f2ff 118q,#f9f9ff 124q,#fff 145q,#fff 263q"></i><i style="--g:#fff 0,#fff 1q,#fbfbff 3q,#f5f5ff 5q,#e8e8ff 7q,#cfcfff 9q,#9797ff 12q,#8080ff 14q,#7070ff 17q,#8b8bff 37q,#8585ff 43q,#6868ff 52q,#7171ff 55q,#7e7eff 56q,#99f 57q,#e9e9ff 58q,#faa 59q,#ff7575 60q,#ff5959 61q,#ff3939 63q,#ff2727 67q,#ff4949 72q,#f88 75q,#ffb3b3 76q,#fff0f0 77q,#dfdfff 78q,#bbf 79q,#a4a4ff 80q,#9c9cff 81q,#9b9bff 83q,#a1a1ff 84q,#b2b2ff 85q,#d0d0ff 86q,#f6f6ff 87q,#ffd8d8 88q,#ffa3a3 89q,#f88 90q,#f66 92q,#f55 94q,#ff5050 97q,#ff6a6a 101q,#ff9696 104q,#ffcbcb 106q,#ffe1e1 107q,#fff0f0 108q,#fffafa 109q,#fefeff 110q,#fafaff 112q,#fff 118q,#fffcfc 126q,#fffbfb 143q,#fff 208q,#fff 224q,#fffdfd 229q,#fff 235q,#fff 263q"></i><i style="--g:#fff 0,#fff6f6 4q,#fff8f8 6q,#fffdfd 7q,#f8f8ff 8q,#ebebff 9q,#d9d9ff 10q,#a2a2ff 12q,#7575ff 15q,#66f 17q,#6363ff 20q,#77f 33q,#77f 40q,#55f 54q,#66f 57q,#7a7aff 58q,#a3a3ff 59q,#ffe6e6 60q,#ff8585 61q,#ff6161 62q,#ff4c4c 63q,#f33 65q,#ff2a2a 68q,#ff4d4d 73q,#f88 76q,#ffb2b2 77q,#ffecec 78q,#e3e3ff 79q,#c0c0ff 80q,#a6a6ff 81q,#9c9cff 82q,#9898ff 84q,#aaf 86q,#c9c9ff 87q,#f1f1ff 88q,#ffdbdb 89q,#ffa3a3 90q,#ff7272 92q,#ff5b5b 94q,#ff5050 97q,#ff6060 101q,#ff8181 104q,#ff9f9f 106q,#ffc9c9 108q,#ffd8d8 109q,#ffe9e9 111q,#ffefef 113q,#fff1f1 116q,#fffafa 157q,#fffcfc 183q,#fffefe 220q,#fffdfd 233q,#fff 244q,#fffefe 263q"></i><i style="--g:#fff 0,#ffebeb 3q,#ffe1e1 6q,#ffe3e3 7q,#ffe9e9 8q,#fff4f4 9q,#f8f8ff 10q,#ddf 11q,#99f 13q,#7575ff 15q,#5e5eff 18q,#6b6bff 39q,#66f 45q,#4848ff 54q,#4e4eff 57q,#66f 59q,#8282ff 60q,#d8d8ff 61q,#ff9f9f 62q,#ff6c6c 63q,#ff5252 64q,#ff3838 66q,#ff2e2e 69q,#ff5252 74q,#ff8e8e 77q,#ffb9b9 78q,#fff1f1 79q,#dfdfff 80q,#bbf 81q,#a1a1ff 82q,#9797ff 83q,#9191ff 85q,#a0a0ff 87q,#bbf 88q,#e7e7ff 89q,#ffe3e3 90q,#ffa6a6 91q,#f88 92q,#ff7373 93q,#ff5c5c 95q,#ff5151 98q,#ff5a5a 101q,#ff7373 104q,#ffa4a4 108q,#ffc4c4 110q,#ffd9d9 113q,#ffe5e5 119q,#ffefef 134q,#fff6f6 157q,#fffdfd 222q,#fffdfd 263q"></i><i style="--g:#fff 0,#ffdfdf 3q,#ffcfcf 5q,#ffc8c8 7q,#ffcaca 8q,#ffd3d3 9q,#ffe4e4 10q,#fff 11q,#d8d8ff 12q,#a8a8ff 13q,#77f 15q,#6060ff 17q,#55f 20q,#6262ff 41q,#3c3cff 56q,#55f 60q,#6d6dff 61q,#9c9cff 62q,#ffd7d7 63q,#ff7b7b 64q,#ff5b5b 65q,#ff4949 66q,#f33 70q,#ff5858 75q,#ff7b7b 77q,#ff9696 78q,#fff 80q,#d3d3ff 81q,#adadff 82q,#99f 83q,#8e8eff 84q,#88f 86q,#9595ff 88q,#aaf 89q,#d8d8ff 90q,#ffefef 91q,#ffb1b1 92q,#ff8a8a 93q,#f66 95q,#f55 99q,#ff6a6a 104q,#ffbdbd 112q,#ffcece 115q,#ffd8d8 119q,#ffe1e1 125q,#ffebeb 137q,#fff4f4 160q,#fffdfd 224q,#fffdfd 263q"></i><i style="--g:#fff 0,#ffc8c8 4q,#ffb3b3 6q,#ffadad 8q,#ffb3b3 9q,#ffc2c2 10q,#ffdcdc 11q,#fbfbff 12q,#9696ff 14q,#6b6bff 16q,#5959ff 18q,#5050ff 21q,#5a5aff 44q,#33f 57q,#4b4bff 61q,#5e5eff 62q,#8080ff 63q,#e9e9ff 64q,#ff9191 65q,#f66 66q,#ff5151 67q,#ff3e3e 69q,#ff3a3a 71q,#ff4949 74q,#ff6060 76q,#ff8585 78q,#ffa4a4 79q,#ffdede 80q,#ececff 81q,#bebeff 82q,#9d9dff 83q,#8484ff 85q,#8282ff 88q,#9b9bff 90q,#c4c4ff 91q,#fefeff 92q,#ffc0c0 93q,#ff9090 94q,#ff6a6a 96q,#f55 100q,#f66 104q,#ffb9b9 114q,#ffc7c7 117q,#ffd6d6 123q,#ffe0e0 130q,#ffe8e8 139q,#fff3f3 163q,#fffcfc 227q,#fffdfd 263q"></i><i style="--g:#fff 0,#fbb 4q,#ffa1a1 6q,#f99 8q,#ffa2a2 10q,#ffb8b8 11q,#ffdede 12q,#ececff 13q,#acacff 14q,#8686ff 15q,#6363ff 17q,#4f4fff 22q,#5858ff 44q,#2b2bff 58q,#44f 62q,#6e6eff 64q,#ababff 65q,#ffbdbd 66q,#f77 67q,#ff4e4e 69q,#f44 73q,#ff6969 77q,#ff9393 79q,#ffc1c1 80q,#fff9f9 81q,#d1d1ff 82q,#a3a3ff 83q,#8282ff 85q,#77f 88q,#8080ff 90q,#8e8eff 91q,#acacff 92q,#e8e8ff 93q,#ffd5d5 94q,#f99 95q,#ff7070 97q,#ff5b5b 101q,#ff6969 105q,#ffb8b8 116q,#ffc7c7 120q,#ffd5d5 126q,#ffe1e1 134q,#ffe7e7 141q,#fff3f3 166q,#fffcfc 230q,#fffdfd 263q"></i><i style="--g:#fff 0,#ffb0b0 4q,#ffa1a1 5q,#ff9292 7q,#ff8e8e 9q,#ff9c9c 11q,#ffb8b8 12q,#ffeaea 13q,#d4d4ff 14q,#9797ff 15q,#7b7bff 16q,#5f5fff 18q,#55f 20q,#5858ff 44q,#2525ff 59q,#33f 62q,#4a4aff 64q,#6161ff 65q,#8a8aff 66q,#fffbfb 67q,#ff8c8c 68q,#ff6a6a 69q,#ff5959 70q,#ff4c4c 73q,#ff5c5c 76q,#ff7575 78q,#f88 79q,#ffa8a8 80q,#ffe2e2 81q,#e5e5ff 82q,#b1b1ff 83q,#9292ff 84q,#7070ff 87q,#6c6cff 89q,#77f 91q,#99f 93q,#ceceff 94q,#ffeded 95q,#faa 96q,#f88 97q,#f77 98q,#f66 100q,#ff6161 102q,#ff6e6e 106q,#ffb5b5 117q,#ffc8c8 122q,#ffd5d5 128q,#ffe0e0 136q,#ffe6e6 143q,#fff2f2 168q,#fffbfb 232q,#fffcfc 263q"></i><i style="--g:#fff 0,#faa 4q,#ff9393 6q,#ff8585 9q,#ff8d8d 11q,#ff9b9b 12q,#ffc1c1 13q,#fffdfd 14q,#bbf 15q,#8c8cff 16q,#77f 17q,#6060ff 19q,#55f 22q,#5959ff 46q,#22f 60q,#2c2cff 63q,#44f 65q,#77f 67q,#c7c7ff 68q,#ffb4b4 69q,#ff7c7c 70q,#ff5c5c 72q,#ff5f5f 76q,#ff8484 79q,#ff9c9c 80q,#ffcece 81q,#f8f8ff 82q,#c2c2ff 83q,#99f 84q,#77f 86q,#66f 89q,#6e6eff 92q,#8c8cff 94q,#b2b2ff 95q,#f4f4ff 96q,#ffc8c8 97q,#ff9797 98q,#ff7575 100q,#ff6868 103q,#ff7474 107q,#ffb6b6 118q,#ffc8c8 123q,#ffd7d7 130q,#ffe2e2 138q,#fff3f3 170q,#fff9f9 209q,#fffcfc 263q"></i><i style="--g:#fff 0,#ffa6a6 4q,#f88 7q,#ff7f7f 10q,#ff8b8b 12q,#ff9d9d 13q,#fcc 14q,#f2f2ff 15q,#afafff 16q,#8a8aff 17q,#77f 18q,#66f 20q,#5e5eff 23q,#6060ff 46q,#1d1dff 61q,#33f 65q,#5050ff 67q,#6a6aff 68q,#99f 69q,#fff1f1 70q,#ff9696 71q,#f77 72q,#ff6b6b 73q,#ff6363 75q,#ff7575 78q,#ff9696 80q,#ffbebe 81q,#fff4f4 82q,#d4d4ff 83q,#a1a1ff 84q,#77f 86q,#5d5dff 90q,#6060ff 92q,#7070ff 94q,#9b9bff 96q,#d5d5ff 97q,#ffe9e9 98q,#ffaeae 99q,#ff8f8f 100q,#ff8080 101q,#ff7272 104q,#ff7d7d 108q,#fbb 119q,#ffcbcb 124q,#ffe4e4 139q,#ffe9e9 146q,#fff4f4 172q,#fffafa 212q,#fffcfc 263q"></i><i style="--g:#fff 0,#ffa7a7 4q,#f88 7q,#ff7b7b 10q,#ff8080 12q,#ff9f9f 14q,#ffd1d1 15q,#f2f2ff 16q,#b8b8ff 17q,#9393ff 18q,#8383ff 19q,#7373ff 21q,#6b6bff 24q,#6c6cff 46q,#5e5eff 50q,#22f 58q,#1a1aff 62q,#2e2eff 66q,#6161ff 69q,#8484ff 70q,#d5d5ff 71q,#ffc7c7 72q,#ff8f8f 73q,#ff7d7d 74q,#ff7272 76q,#ff7a7a 78q,#ff9595 80q,#ffb4b4 81q,#ffe5e5 82q,#e6e6ff 83q,#b0b0ff 84q,#8f8fff 85q,#6e6eff 87q,#5858ff 90q,#5f5fff 94q,#77f 96q,#8c8cff 97q,#b4b4ff 98q,#f3f3ff 99q,#ffd3d3 100q,#ffa4a4 101q,#ff8686 103q,#ff7e7e 105q,#f88 109q,#ffc3c3 120q,#ffd1d1 125q,#ffe7e7 140q,#ffebeb 147q,#fff5f5 173q,#fffbfb 215q,#fffcfc 263q"></i><i style="--g:#fff 0,#ffacac 4q,#ff9292 6q,#ff7979 10q,#ff7e7e 13q,#ff9b9b 15q,#ffc4c4 16q,#fff5f5 17q,#dbdbff 18q,#b5b5ff 19q,#9c9cff 20q,#8a8aff 22q,#8181ff 25q,#7f7fff 47q,#7171ff 50q,#2a2aff 58q,#1919ff 63q,#2c2cff 67q,#5a5aff 70q,#77f 71q,#a4a4ff 72q,#fffdfd 73q,#ffb6b6 74q,#ff9393 75q,#ff8383 77q,#ff8b8b 79q,#ff9797 80q,#ffafaf 81q,#ffd8d8 82q,#f7f7ff 83q,#c5c5ff 84q,#99f 85q,#8282ff 86q,#66f 88q,#5151ff 92q,#6262ff 96q,#8080ff 98q,#9b9bff 99q,#cfcfff 100q,#fffafa 101q,#fcc 102q,#faa 103q,#ff9191 105q,#ff8d8d 107q,#ff9f9f 112q,#ffc7c7 119q,#ffd5d5 124q,#ffe0e0 131q,#ffeaea 140q,#ffefef 148q,#fff6f6 174q,#fffcfc 217q,#fffbfb 231q,#fffdfd 245q,#fffdfd 263q"></i><i style="--g:#fff 0,#ffa4a4 5q,#f88 8q,#ff7575 12q,#ff8282 15q,#ffa2a2 17q,#ffe5e5 19q,#fdfdff 20q,#e7e7ff 21q,#d5d5ff 22q,#c8c8ff 23q,#b6b6ff 25q,#aaf 28q,#a4a4ff 31q,#acacff 44q,#aaf 47q,#9595ff 50q,#33f 58q,#1818ff 64q,#22f 67q,#44f 70q,#6e6eff 72q,#9090ff 73q,#d4d4ff 74q,#ffe6e6 75q,#ffb6b6 76q,#ff9e9e 77q,#ff9898 79q,#ff9e9e 80q,#ffb1b1 81q,#ffd0d0 82q,#fff6f6 83q,#dbdbff 84q,#a8a8ff 85q,#8b8bff 86q,#6a6aff 88q,#55f 90q,#4c4cff 93q,#5d5dff 97q,#8b8bff 100q,#aaf 101q,#dedeff 102q,#fff6f6 103q,#ffd4d4 104q,#fbb 105q,#ffabab 106q,#ffa1a1 108q,#ffa4a4 110q,#ffc7c7 116q,#ffd2d2 119q,#ffe3e3 127q,#ffefef 140q,#fff3f3 149q,#fffafa 181q,#fffdfd 219q,#fffcfc 233q,#fffdfd 263q"></i><i style="--g:#fff 0,#ffe3e3 2q,#ffa3a3 6q,#ff7f7f 10q,#ff7070 14q,#f77 16q,#ff8f8f 19q,#ffd5d5 24q,#ffeded 27q,#fff6f6 29q,#fff 32q,#fdfdff 36q,#fff 40q,#fff2f2 47q,#fff3f3 48q,#fff8f8 49q,#fcfcff 50q,#eaeaff 51q,#ceceff 52q,#a6a6ff 53q,#8a8aff 54q,#4141ff 58q,#22f 61q,#1919ff 65q,#22f 68q,#44f 71q,#8484ff 74q,#b3b3ff 75q,#f3f3ff 76q,#fdd 77q,#ffbfbf 78q,#ffb0b0 79q,#ffaeae 80q,#ffb8b8 81q,#fcc 82q,#ffe8e8 83q,#f1f1ff 84q,#99f 86q,#8383ff 87q,#66f 89q,#4d4dff 92q,#4a4aff 95q,#6363ff 99q,#9696ff 102q,#e1e1ff 104q,#fffefe 105q,#ffe6e6 106q,#ffd6d6 107q,#fcc 108q,#ffc6c6 110q,#ffe3e3 120q,#ffeded 127q,#fff4f4 138q,#fff8f8 147q,#fffcfc 185q,#fffdfd 212q,#fff 219q,#fffdfd 237q,#fff 247q,#fff 263q"></i><i style="--g:#fff 0,#ffe2e2 3q,#ffcaca 5q,#ff9c9c 8q,#ff7575 12q,#f66 15q,#ff6a6a 18q,#f99 29q,#ffa3a3 34q,#ffa4a4 40q,#ff9494 48q,#f99 51q,#ffa5a5 52q,#ffc4c4 53q,#fff1f1 54q,#cfcfff 55q,#9191ff 56q,#7171ff 57q,#4848ff 59q,#2727ff 62q,#1b1bff 66q,#2e2eff 70q,#55f 73q,#7f7fff 75q,#a0a0ff 76q,#dadaff 77q,#fff7f7 78q,#ffd8d8 79q,#ffc8c8 80q,#ffc3c3 81q,#ffcaca 82q,#ffdbdb 83q,#fff6f6 84q,#e3e3ff 85q,#b7b7ff 86q,#9393ff 87q,#6060ff 90q,#4747ff 95q,#5f5fff 100q,#77f 102q,#9c9cff 104q,#d9d9ff 106q,#f0f0ff 107q,#fffefe 108q,#fff3f3 109q,#ffeded 110q,#ffe9e9 112q,#fff3f3 120q,#fff8f8 126q,#fffefe 145q,#fff 263q"></i><i style="--g:#fff 0,#fff7f7 2q,#ffecec 4q,#ffd9d9 6q,#ff8686 11q,#f66 14q,#ff5959 18q,#ff7a7a 34q,#ff7b7b 41q,#ff6d6d 50q,#ff6f6f 52q,#ff7e7e 54q,#ff9191 55q,#ffc4c4 56q,#e1e1ff 57q,#8d8dff 58q,#6969ff 59q,#33f 62q,#1d1dff 67q,#3030ff 71q,#55f 74q,#7d7dff 76q,#9b9bff 77q,#ceceff 78q,#fafaff 79q,#ffe5e5 80q,#ffd3d3 81q,#fcc 82q,#ffd1d1 83q,#ffe1e1 84q,#fffbfb 85q,#dedeff 86q,#b1b1ff 87q,#8f8fff 88q,#5e5eff 91q,#44f 96q,#55f 100q,#7f7fff 104q,#9f9fff 106q,#ccf 108q,#dcdcff 109q,#e7e7ff 110q,#efefff 111q,#f6f6ff 113q,#f9f9ff 116q,#f9f9ff 144q,#fcfcff 157q,#fefeff 204q,#fff 209q,#fff 220q,#fdfdff 229q,#fff 238q,#fefeff 258q,#fff 263q"></i><i style="--g:#fff 0,#fafaff 3q,#fefeff 5q,#fffbfb 6q,#fff1f1 7q,#ffe1e1 8q,#fcc 9q,#ff9595 11q,#ff8282 12q,#ff5b5b 15q,#ff4c4c 19q,#f66 37q,#f55 52q,#ff6b6b 56q,#ff8080 57q,#ffb2b2 58q,#d8d8ff 59q,#8181ff 60q,#5f5fff 61q,#3a3aff 63q,#22f 68q,#33f 72q,#5858ff 75q,#8080ff 77q,#9c9cff 78q,#cfcfff 79q,#fafaff 80q,#ffe4e4 81q,#ffd1d1 82q,#ffc9c9 83q,#fcc 84q,#ffdcdc 85q,#fff6f6 86q,#e3e3ff 87q,#b4b4ff 88q,#9090ff 89q,#5e5eff 92q,#44f 97q,#55f 101q,#6d6dff 104q,#c8c8ff 111q,#d7d7ff 113q,#e0e0ff 116q,#e6e6ff 120q,#efefff 132q,#f7f7ff 157q,#fdfdff 217q,#fcfcff 231q,#fefeff 246q,#fdfdff 263q"></i><i style="--g:#fff 0,#e8e8ff 3q,#dfdfff 5q,#e0e0ff 6q,#e5e5ff 7q,#f0f0ff 8q,#fffafa 9q,#ffdcdc 10q,#ffb2b2 11q,#ff8f8f 12q,#f66 14q,#ff4949 17q,#f44 21q,#f55 38q,#f44 52q,#ff4b4b 56q,#ff6262 58q,#ff7b7b 59q,#ffbebe 60q,#b6b6ff 61q,#7272ff 62q,#55f 63q,#3636ff 65q,#2626ff 69q,#3939ff 73q,#5e5eff 76q,#8686ff 78q,#a6a6ff 79q,#dcdcff 80q,#fff7f7 81q,#ffd7d7 82q,#ffc3c3 83q,#fbb 84q,#ffbdbd 85q,#fcc 86q,#ffe7e7 87q,#f1f1ff 88q,#9595ff 90q,#7d7dff 91q,#5f5fff 93q,#4646ff 98q,#6262ff 104q,#b8b8ff 113q,#c8c8ff 116q,#d6d6ff 121q,#dfdfff 127q,#e7e7ff 136q,#f3f3ff 160q,#f8f8ff 187q,#fcfcff 220q,#fbfbff 234q,#fcfcff 263q"></i><i style="--g:#fff 0,#d5d5ff 3q,#c1c1ff 5q,#bbf 6q,#bbf 7q,#c3c3ff 8q,#d3d3ff 9q,#f0f0ff 10q,#ffe3e3 11q,#ffa7a7 12q,#ff8484 13q,#ff5a5a 15q,#ff3d3d 19q,#ff4c4c 40q,#ff3636 55q,#ff4e4e 59q,#ff6060 60q,#ff8080 61q,#ffe4e4 62q,#9292ff 63q,#66f 64q,#4e4eff 65q,#3636ff 67q,#2d2dff 70q,#3838ff 73q,#55f 76q,#9393ff 79q,#f5f5ff 81q,#ffdede 82q,#ffbfbf 83q,#faa 84q,#ffa2a2 85q,#ffa4a4 86q,#ffb3b3 87q,#ffcfcf 88q,#fff7f7 89q,#d4d4ff 90q,#9e9eff 91q,#8282ff 92q,#6262ff 94q,#4848ff 99q,#5b5bff 104q,#acacff 115q,#bfbfff 119q,#cfcfff 125q,#dadaff 131q,#e1e1ff 138q,#f0f0ff 162q,#f6f6ff 190q,#fbfbff 223q,#fcfcff 263q"></i><i style="--g:#fff 0,#d7d7ff 2q,#a4a4ff 5q,#9b9bff 7q,#a3a3ff 9q,#bbf 10q,#e6e6ff 11q,#ffdada 12q,#ff9696 13q,#ff5e5e 15q,#f44 17q,#ff3838 20q,#f44 41q,#ff2b2b 55q,#ff3636 59q,#ff4e4e 61q,#f66 62q,#ff9191 63q,#e4e4ff 64q,#7e7eff 65q,#5d5dff 66q,#4a4aff 67q,#33f 71q,#55f 76q,#88f 79q,#aaf 80q,#e6e6ff 81q,#ffe5e5 82q,#fbb 83q,#ff9f9f 84q,#ff9090 86q,#f99 88q,#ffafaf 89q,#ffd9d9 90q,#f0f0ff 91q,#b4b4ff 92q,#8c8cff 93q,#77f 94q,#5c5cff 96q,#4c4cff 100q,#5757ff 104q,#99f 114q,#bbf 122q,#d6d6ff 134q,#eef 165q,#f5f5ff 193q,#fafaff 226q,#fcfcff 263q"></i><i style="--g:#fff 0,#b4b4ff 3q,#a1a1ff 4q,#8e8eff 6q,#8b8bff 9q,#9595ff 10q,#afafff 11q,#ececff 12q,#ffc0c0 13q,#ff8383 14q,#f66 15q,#ff4747 17q,#ff3838 20q,#ff4242 41q,#f22 57q,#f33 61q,#ff5353 63q,#ff7070 64q,#ffb8b8 65q,#aeaeff 66q,#7272ff 67q,#4b4bff 69q,#3f3fff 71q,#44f 74q,#6e6eff 78q,#9f9fff 80q,#dadaff 81q,#ffebeb 82q,#ffb9b9 83q,#f99 84q,#ff8b8b 85q,#ff8080 87q,#f88 89q,#ff9595 90q,#ffb4b4 91q,#ffebeb 92q,#d5d5ff 93q,#9a9aff 94q,#6e6eff 96q,#5a5aff 98q,#5050ff 101q,#5b5bff 105q,#99f 116q,#bbf 125q,#d6d6ff 137q,#ececff 167q,#f4f4ff 196q,#fafaff 229q,#fbfbff 263q"></i><i style="--g:#fff 0,#a8a8ff 3q,#8c8cff 5q,#7b7bff 8q,#8181ff 10q,#8e8eff 11q,#b3b3ff 12q,#fffbfb 13q,#ff9d9d 14q,#ff7373 15q,#ff5c5c 16q,#f44 18q,#ff3838 21q,#ff4040 42q,#ff1c1c 58q,#ff2525 61q,#f44 64q,#ff5c5c 65q,#ff8282 66q,#fff0f0 67q,#9494ff 68q,#6d6dff 69q,#5b5bff 70q,#4a4aff 73q,#55f 76q,#6e6eff 78q,#9b9bff 80q,#d3d3ff 81q,#ffefef 82q,#ffb8b8 83q,#ff9494 84q,#ff8484 85q,#ff7474 87q,#f77 90q,#ff9696 92q,#ffc2c2 93q,#fcfcff 94q,#babaff 95q,#8e8eff 96q,#6a6aff 98q,#55f 102q,#6060ff 106q,#9494ff 116q,#bcbcff 127q,#d4d4ff 138q,#ececff 169q,#f4f4ff 200q,#f9f9ff 232q,#fbfbff 263q"></i><i style="--g:#fff 0,#a1a1ff 3q,#7d7dff 6q,#7272ff 9q,#7c7cff 11q,#8e8eff 12q,#c4c4ff 13q,#ffdbdb 14q,#ff8a8a 15q,#ff6a6a 16q,#ff4b4b 18q,#ff3b3b 22q,#ff4040 44q,#ff1717 59q,#ff2626 63q,#ff4e4e 66q,#ff6969 67q,#ff9b9b 68q,#e5e5ff 69q,#8c8cff 70q,#7070ff 71q,#5b5bff 73q,#66f 77q,#8282ff 79q,#9c9cff 80q,#d2d2ff 81q,#fff0f0 82q,#ffb6b6 83q,#ff9292 84q,#ff7f7f 85q,#ff6b6b 87q,#ff6c6c 91q,#ff8383 93q,#ff9c9c 94q,#ffd6d6 95q,#e6e6ff 96q,#a4a4ff 97q,#88f 98q,#77f 99q,#5f5fff 103q,#66f 107q,#9696ff 117q,#bdbdff 128q,#d7d7ff 140q,#ededff 171q,#f5f5ff 204q,#f6f6ff 222q,#f9f9ff 235q,#fbfbff 263q"></i><i style="--g:#fff 0,#9f9fff 3q,#7979ff 6q,#6b6bff 9q,#7070ff 11q,#7b7bff 12q,#9393ff 13q,#dadaff 14q,#ffbfbf 15q,#ff8181 16q,#f66 17q,#ff4e4e 19q,#f44 21q,#f44 44q,#f11 60q,#ff1b1b 63q,#f33 66q,#ff5a5a 68q,#ff7a7a 69q,#ffc1c1 70q,#d0d0ff 71q,#8e8eff 72q,#7979ff 73q,#6c6cff 76q,#88f 79q,#a1a1ff 80q,#d6d6ff 81q,#ffefef 82q,#ffb5b5 83q,#ff9090 84q,#ff6f6f 86q,#ff5c5c 89q,#ff6868 93q,#f88 95q,#ffa7a7 96q,#ffe9e9 97q,#d5d5ff 98q,#9e9eff 99q,#7979ff 101q,#6969ff 105q,#c1c1ff 129q,#d9d9ff 141q,#eef 173q,#f6f6ff 210q,#fbfbff 263q"></i><i style="--g:#fff 0,#9f9fff 3q,#8282ff 5q,#7171ff 7q,#66f 10q,#6e6eff 12q,#7c7cff 13q,#99f 14q,#e6e6ff 15q,#ffb9b9 16q,#ff8484 17q,#ff6d6d 18q,#ff5757 20q,#ff4e4e 23q,#ff4b4b 46q,#f11 61q,#ff3030 67q,#f66 70q,#ff8b8b 71q,#ffdbdb 72q,#d0d0ff 73q,#9b9bff 74q,#8a8aff 75q,#8484ff 77q,#9797ff 79q,#b2b2ff 80q,#e0e0ff 81q,#ffebeb 82q,#ffb5b5 83q,#ff9090 84q,#ff6d6d 86q,#f55 90q,#ff5f5f 94q,#f77 96q,#ff8d8d 97q,#ffb7b7 98q,#fff6f6 99q,#ceceff 100q,#a0a0ff 101q,#8181ff 103q,#77f 106q,#c6c6ff 129q,#dfdfff 143q,#f1f1ff 175q,#f8f8ff 212q,#fbfbff 263q"></i><i style="--g:#fff 0,#a2a2ff 3q,#7a7aff 6q,#6363ff 11q,#7b7bff 14q,#9696ff 15q,#d8d8ff 16q,#ffd6d6 17q,#f99 18q,#ff8080 19q,#ff6a6a 21q,#ff6060 24q,#ff5959 46q,#f11 62q,#ff2d2d 68q,#ff4848 70q,#ff7575 72q,#ff9b9b 73q,#ffe3e3 74q,#e1e1ff 75q,#bbf 76q,#a9a9ff 77q,#a7a7ff 78q,#b4b4ff 79q,#ccf 80q,#efefff 81q,#ffe5e5 82q,#ffb4b4 83q,#ff9191 84q,#ff6262 87q,#ff4c4c 91q,#ff5f5f 96q,#ff7c7c 98q,#ff9494 99q,#ffc2c2 100q,#fffafa 101q,#d4d4ff 102q,#adadff 103q,#99f 104q,#8f8fff 105q,#88f 108q,#bfbfff 123q,#ccf 128q,#e4e4ff 143q,#f3f3ff 177q,#fafaff 215q,#f9f9ff 230q,#fbfbff 245q,#fbfbff 263q"></i><i style="--g:#fff 0,#aaf 3q,#8a8aff 5q,#6e6eff 8q,#6161ff 11q,#6363ff 13q,#7575ff 15q,#88f 16q,#a6a6ff 17q,#e2e2ff 18q,#ffe7e7 19q,#fbb 20q,#ff9e9e 21q,#f88 23q,#ff7e7e 26q,#ff7171 46q,#ff5f5f 50q,#f22 58q,#f11 63q,#ff1b1b 67q,#ff3636 70q,#f55 72q,#ff8282 74q,#ffa6a6 75q,#ffdede 76q,#fafaff 77q,#e7e7ff 78q,#e2e2ff 79q,#ececff 80q,#fffcfc 81q,#fdd 82q,#ffb5b5 83q,#ff9494 84q,#ff6464 87q,#ff4c4c 90q,#f44 93q,#ff6262 98q,#ff8181 100q,#f99 101q,#fff3f3 103q,#e5e5ff 104q,#c8c8ff 105q,#b2b2ff 106q,#a4a4ff 107q,#9e9eff 109q,#a6a6ff 113q,#c8c8ff 121q,#d6d6ff 127q,#ebebff 144q,#f6f6ff 178q,#fcfcff 218q,#fbfbff 233q,#fcfcff 263q"></i><i style="--g:#fff 0,#a1a1ff 4q,#7575ff 8q,#5c5cff 13q,#7272ff 17q,#a2a2ff 20q,#dbdbff 22q,#f0f0ff 23q,#fffdfd 24q,#ffefef 25q,#ffe5e5 26q,#ffd5d5 28q,#ffc4c4 32q,#ffabab 45q,#ff9191 49q,#ff2b2b 58q,#f11 64q,#ff2a2a 70q,#ff6161 74q,#ff8e8e 76q,#ffd4d4 78q,#ffe9e9 79q,#ffefef 80q,#ffe7e7 81q,#ffd4d4 82q,#f99 84q,#ff8585 85q,#f66 87q,#ff4d4d 90q,#ff4646 96q,#f66 100q,#f99 103q,#ffe3e3 105q,#fff 106q,#e9e9ff 107q,#dadaff 108q,#cbcbff 110q,#c8c8ff 112q,#dfdfff 122q,#e9e9ff 130q,#f2f2ff 142q,#f5f5ff 149q,#fefeff 221q,#fcfcff 236q,#fdfdff 263q"></i><i style="--g:#fff 0,#ddf 2q,#a3a3ff 5q,#77f 9q,#55f 14q,#5c5cff 18q,#9494ff 27q,#b7b7ff 35q,#cbcbff 47q,#dedeff 49q,#f1f1ff 50q,#fff2f2 51q,#fcc 52q,#ff9e9e 53q,#ff8282 54q,#ff3c3c 58q,#f22 61q,#f11 65q,#ff2b2b 71q,#ff5e5e 75q,#f99 78q,#ffcbcb 80q,#ffd2d2 81q,#fcc 82q,#ffbaba 83q,#ffa0a0 84q,#ff6262 88q,#ff4141 93q,#ff4e4e 99q,#ff6a6a 102q,#f99 105q,#fcc 107q,#ffe2e2 108q,#fff2f2 109q,#fffdfd 110q,#f5f5ff 112q,#f1f1ff 115q,#f8f8ff 129q,#fdfdff 146q,#fdfdff 175q,#fff 188q,#fefeff 208q,#fff 211q,#fff 263q"></i><i style="--g:#fff 0,#e2e2ff 3q,#d6d6ff 4q,#a0a0ff 7q,#8484ff 9q,#5757ff 13q,#4747ff 17q,#7373ff 34q,#77f 49q,#8b8bff 52q,#9e9eff 53q,#d1d1ff 54q,#ffe6e6 55q,#f99 56q,#ff7373 57q,#ff3a3a 60q,#ff1515 66q,#ff2626 71q,#ff4f4f 75q,#ff8080 78q,#ffbdbd 81q,#ffc5c5 82q,#ffc0c0 83q,#f88 86q,#ff6060 89q,#f44 93q,#ff4141 98q,#ff5a5a 102q,#ff7979 105q,#ffa2a2 108q,#ffc5c5 110q,#ffdbdb 112q,#ffe9e9 115q,#fff1f1 121q,#fff5f5 130q,#fffdfd 180q,#fffefe 213q,#fffcfc 229q,#fff 240q,#fffefe 263q"></i><i style="--g:#fff 0,#fefeff 2q,#f6f6ff 4q,#efefff 5q,#e3e3ff 6q,#d1d1ff 7q,#9d9dff 9q,#77f 11q,#4e4eff 14q,#3c3cff 17q,#5858ff 36q,#55f 50q,#66f 54q,#77f 55q,#9191ff 56q,#dedeff 57q,#ffb0b0 58q,#f77 59q,#ff5959 60q,#ff3737 62q,#ff1a1a 67q,#ff2a2a 72q,#ff5252 76q,#ff8383 79q,#ffc1c1 82q,#ffc9c9 83q,#ffc4c4 84q,#ff8a8a 87q,#ff5f5f 90q,#f44 94q,#ff3e3e 98q,#ff5e5e 104q,#ffb6b6 113q,#ffc9c9 116q,#ffd5d5 120q,#ffe0e0 126q,#ffe7e7 134q,#fff3f3 159q,#fff9f9 183q,#fffcfc 215q,#fffbfb 231q,#fffdfd 246q,#fffdfd 263q"></i><i style="--g:#fff 0,#ffe9e9 3q,#ffe4e4 5q,#ffe9e9 6q,#fff4f4 7q,#f6f6ff 8q,#d7d7ff 9q,#aaf 10q,#88f 11q,#4e4eff 14q,#33f 17q,#4747ff 38q,#4141ff 52q,#4c4cff 55q,#6363ff 57q,#7c7cff 58q,#bbf 59q,#ffbdbd 60q,#ff7575 61q,#f55 62q,#ff2d2d 65q,#f22 69q,#ff3737 74q,#f66 78q,#ffa2a2 81q,#ffc1c1 82q,#ffd5d5 83q,#fdd 84q,#ffd7d7 85q,#ffc5c5 86q,#ff9191 88q,#ff6e6e 90q,#ff4848 94q,#ff3e3e 98q,#ff4e4e 103q,#ff9898 113q,#fbb 120q,#ffcbcb 125q,#ffd6d6 131q,#fee 162q,#fff5f5 187q,#fffafa 218q,#fffafa 234q,#fffcfc 263q"></i><i style="--g:#fff 0,#ffcece 3q,#ffb9b9 5q,#ffb5b5 6q,#ffb9b9 7q,#ffc7c7 8q,#ffe3e3 9q,#efefff 10q,#afafff 11q,#8282ff 12q,#66f 13q,#44f 15q,#2828ff 20q,#3b3bff 37q,#33f 52q,#3939ff 56q,#4949ff 58q,#7373ff 60q,#b1b1ff 61q,#ffb9b9 62q,#ff7272 63q,#f55 64q,#ff3737 66q,#ff2727 70q,#ff4949 76q,#ff8686 80q,#ff9f9f 81q,#ffc6c6 82q,#ffe5e5 83q,#fff8f8 84q,#fff 85q,#fff8f8 86q,#ffe4e4 87q,#ffc5c5 88q,#ff9f9f 89q,#f88 90q,#ff5252 94q,#ff4040 99q,#ff4f4f 104q,#ff9292 115q,#ffb5b5 124q,#ffcece 134q,#ffe9e9 164q,#fff3f3 190q,#fff9f9 221q,#fffbfb 263q"></i><i style="--g:#fff 0,#ffb5b5 3q,#ffa2a2 4q,#ff9191 7q,#ffa0a0 9q,#ffc5c5 10q,#f8f8ff 11q,#a1a1ff 12q,#7474ff 13q,#44f 15q,#2f2fff 17q,#22f 21q,#33f 37q,#2525ff 54q,#3030ff 58q,#55f 61q,#7171ff 62q,#b8b8ff 63q,#ffacac 64q,#ff6f6f 65q,#f55 66q,#ff3b3b 68q,#f33 71q,#ff4141 75q,#ff6161 78q,#ff8585 80q,#ffa0a0 81q,#ffd0d0 82q,#fff9f9 83q,#e8e8ff 84q,#d6d6ff 85q,#d1d1ff 86q,#d9d9ff 87q,#eef 88q,#ffefef 89q,#f99 91q,#ff8080 92q,#ff6161 94q,#ff4a4a 97q,#f44 100q,#ff5151 105q,#ff8f8f 117q,#ffb2b2 127q,#ffc8c8 136q,#ffe6e6 166q,#fff0f0 193q,#fff8f8 224q,#fffafa 263q"></i><i style="--g:#fff 0,#ffa1a1 3q,#f88 5q,#ff7d7d 8q,#ff8f8f 10q,#ffb9b9 11q,#ebebff 12q,#8c8cff 13q,#66f 14q,#3b3bff 16q,#22f 21q,#2f2fff 40q,#1c1cff 55q,#2c2cff 60q,#55f 63q,#7575ff 64q,#c8c8ff 65q,#ffa2a2 66q,#ff7070 67q,#ff4b4b 69q,#ff3e3e 71q,#ff4d4d 76q,#ff6363 78q,#f88 80q,#ffa8a8 81q,#ffe0e0 82q,#eef 83q,#c7c7ff 84q,#acacff 85q,#9f9fff 86q,#a3a3ff 88q,#b9b9ff 89q,#dcdcff 90q,#fff5f5 91q,#ffbebe 92q,#ff9292 93q,#ff7b7b 94q,#ff5f5f 96q,#ff4848 101q,#f55 106q,#ff9393 120q,#fbb 133q,#ffc6c6 138q,#ffe4e4 168q,#ffefef 196q,#fff7f7 228q,#fffafa 263q"></i><i style="--g:#fff 0,#ffb1b1 2q,#ff9797 3q,#f88 4q,#ff7575 6q,#ff6e6e 8q,#f77 10q,#f88 11q,#ffc2c2 12q,#c6c6ff 13q,#77f 14q,#55f 15q,#33f 17q,#22f 21q,#2c2cff 41q,#1515ff 56q,#2a2aff 62q,#5959ff 65q,#7b7bff 66q,#d7d7ff 67q,#ffa2a2 68q,#ff7575 69q,#ff6060 70q,#ff4e4e 72q,#ff5050 75q,#ff5e5e 77q,#ff7a7a 79q,#ff9090 80q,#fbb 81q,#fff6f6 82q,#d4d4ff 83q,#a6a6ff 84q,#88f 86q,#8282ff 88q,#8f8fff 90q,#a2a2ff 91q,#d0d0ff 92q,#fff6f6 93q,#ffb8b8 94q,#ff8e8e 95q,#f77 96q,#ff5f5f 98q,#ff4f4f 103q,#ff8c8c 119q,#ffb7b7 133q,#ffc6c6 140q,#ffe4e4 170q,#ffefef 199q,#fff6f6 231q,#fff9f9 263q"></i><i style="--g:#fff 0,#ffa8a8 2q,#ff9090 3q,#ff7575 5q,#ff6363 9q,#ff7272 11q,#ff8b8b 12q,#ffdfdf 13q,#9a9aff 14q,#66f 15q,#4d4dff 16q,#33f 18q,#2525ff 21q,#2d2dff 42q,#11f 58q,#2b2bff 64q,#5e5eff 67q,#8282ff 68q,#ddf 69q,#ffb1b1 70q,#ff8181 71q,#ff6e6e 72q,#ff6060 74q,#f66 76q,#f77 78q,#ffa0a0 80q,#ffd7d7 81q,#eef 82q,#b8b8ff 83q,#9494ff 84q,#8383ff 85q,#7171ff 87q,#7171ff 90q,#8585ff 92q,#99f 93q,#cacaff 94q,#fff5f5 95q,#ffb5b5 96q,#ff8d8d 97q,#ff7979 98q,#ff6363 100q,#f55 104q,#ffb9b9 134q,#ffc8c8 141q,#ffe6e6 172q,#fff0f0 202q,#fff6f6 234q,#fff9f9 263q"></i><i style="--g:#fff 0,#ffa3a3 2q,#ff8c8c 3q,#ff7171 5q,#ff5b5b 9q,#ff6363 11q,#ff7272 12q,#ff9393 13q,#f9f9ff 14q,#8686ff 15q,#5f5fff 16q,#3c3cff 18q,#2c2cff 21q,#2f2fff 43q,#0c0cff 59q,#22f 65q,#3c3cff 67q,#6464ff 69q,#88f 70q,#d4d4ff 71q,#ffd1d1 72q,#f99 73q,#ff8686 74q,#ff7d7d 76q,#ff8b8b 78q,#ff9d9d 79q,#ffc6c6 80q,#fff9f9 81q,#d0d0ff 82q,#9e9eff 83q,#77f 85q,#5e5eff 89q,#7070ff 93q,#9696ff 95q,#c7c7ff 96q,#fff7f7 97q,#ffb9b9 98q,#ff9191 99q,#ff7272 101q,#ff6262 105q,#ffbebe 135q,#fcc 142q,#ffe8e8 174q,#fff2f2 208q,#fff7f7 239q,#fff9f9 263q"></i><i style="--g:#fff 0,#ffa3a3 2q,#ff8c8c 3q,#ff6f6f 5q,#f55 10q,#ff6262 12q,#ff7474 13q,#ff9e9e 14q,#e1e1ff 15q,#8181ff 16q,#6060ff 17q,#4d4dff 18q,#33f 22q,#3636ff 43q,#0909ff 60q,#11f 64q,#33f 68q,#5353ff 70q,#88f 72q,#bebeff 73q,#fff 74q,#ffd2d2 75q,#fbb 76q,#ffb4b4 77q,#ffbebe 78q,#ffd5d5 79q,#fff6f6 80q,#dfdfff 81q,#b0b0ff 82q,#9090ff 83q,#66f 86q,#5353ff 90q,#6262ff 94q,#7c7cff 96q,#9393ff 97q,#c4c4ff 98q,#fffdfd 99q,#ffc5c5 100q,#ff9a9a 101q,#ff7d7d 103q,#ff6f6f 107q,#ffc4c4 135q,#ffd5d5 144q,#ffecec 176q,#fff4f4 210q,#fff9f9 263q"></i><i style="--g:#fff 0,#ffa5a5 2q,#ff8e8e 3q,#ff7171 5q,#ff5252 10q,#ff6161 13q,#ff7575 14q,#ff9e9e 15q,#ededff 16q,#8d8dff 17q,#6d6dff 18q,#5b5bff 19q,#44f 24q,#3e3eff 45q,#0808ff 61q,#22f 68q,#4848ff 71q,#6d6dff 73q,#a2a2ff 75q,#ccf 76q,#e5e5ff 77q,#ededff 78q,#e6e6ff 79q,#d3d3ff 80q,#99f 82q,#8585ff 83q,#5858ff 87q,#4a4aff 92q,#5f5fff 96q,#7b7bff 98q,#9292ff 99q,#bcbcff 100q,#f3f3ff 101q,#ffdada 102q,#ffb1b1 103q,#f99 104q,#ff8e8e 105q,#ff8282 108q,#ff8a8a 113q,#ffcaca 134q,#ffdcdc 144q,#fff0f0 178q,#fff7f7 213q,#fffafa 263q"></i><i style="--g:#fff 0,#ffadad 2q,#ff9393 3q,#ff6a6a 6q,#ff4f4f 11q,#f55 13q,#ff6e6e 15q,#ff8b8b 16q,#ffd2d2 17q,#d1d1ff 18q,#9393ff 19q,#7c7cff 20q,#66f 22q,#5c5cff 25q,#4d4dff 46q,#11f 58q,#0808ff 63q,#11f 67q,#33f 71q,#9090ff 77q,#a2a2ff 79q,#9696ff 81q,#5d5dff 86q,#44f 90q,#4e4eff 96q,#7a7aff 100q,#8f8fff 101q,#afafff 102q,#dedeff 103q,#fff7f7 104q,#ffd7d7 105q,#ffbdbd 106q,#faa 107q,#ffa1a1 108q,#ff9b9b 111q,#ffa5a5 116q,#ffc2c2 124q,#ffcfcf 130q,#ffe6e6 145q,#fff4f4 180q,#fffafa 217q,#fff9f9 233q,#fffbfb 263q"></i><i style="--g:#fff 0,#ffb9b9 2q,#ff9c9c 3q,#ff7272 6q,#ff4c4c 12q,#ff6060 16q,#ff8484 18q,#ffa1a1 19q,#ffd8d8 20q,#f8f8ff 21q,#d3d3ff 22q,#b6b6ff 23q,#a2a2ff 24q,#8a8aff 28q,#6f6fff 45q,#5d5dff 49q,#1a1aff 58q,#0909ff 64q,#2929ff 71q,#7b7bff 78q,#88f 80q,#8080ff 82q,#4e4eff 88q,#3e3eff 92q,#4d4dff 98q,#7979ff 102q,#a0a0ff 104q,#e4e4ff 106q,#fff 107q,#ffecec 108q,#ffdede 109q,#ffcece 111q,#ffc9c9 113q,#fdd 126q,#ffeaea 137q,#fff2f2 149q,#fff4f4 166q,#fff9f9 185q,#fffdfd 219q,#fffcfc 236q,#fffdfd 263q"></i><i style="--g:#fff 0,#ffadad 3q,#f99 4q,#ff7373 7q,#ff5151 11q,#f44 14q,#ff4e4e 17q,#f66 20q,#ffa3a3 26q,#ffcaca 29q,#ffe3e3 32q,#fff 37q,#e2e2ff 43q,#c8c8ff 46q,#a5a5ff 48q,#5151ff 54q,#22f 59q,#0b0bff 65q,#22f 71q,#7171ff 79q,#7b7bff 81q,#3a3aff 93q,#44f 98q,#6b6bff 103q,#a7a7ff 107q,#d5d5ff 109q,#e5e5ff 110q,#f0f0ff 111q,#fff 113q,#fff7f7 116q,#fff6f6 120q,#fffdfd 147q,#fffbfb 170q,#fff 211q,#fff 263q"></i><i style="--g:#fff 0,#fdd 2q,#ffa0a0 5q,#f55 11q,#ff3a3a 16q,#ff7070 32q,#ff8a8a 46q,#ff9e9e 49q,#ffb5b5 50q,#ffd9d9 51q,#f7f7ff 52q,#bdbdff 53q,#8d8dff 54q,#5c5cff 56q,#3e3eff 58q,#1a1aff 62q,#11f 66q,#22f 72q,#6e6eff 80q,#77f 82q,#7171ff 84q,#3d3dff 92q,#3737ff 96q,#44f 100q,#8080ff 107q,#c7c7ff 113q,#d9d9ff 116q,#e5e5ff 120q,#ececff 125q,#f0f0ff 132q,#f8f8ff 159q,#fcfcff 180q,#fdfdff 211q,#fcfcff 227q,#fefeff 243q,#fefeff 263q"></i><i style="--g:#fff 0,#fff3f3 2q,#ffebeb 3q,#ffd1d1 5q,#ffa2a2 7q,#ff7e7e 9q,#ff5151 12q,#f33 15q,#ff2d2d 19q,#ff4d4d 32q,#ff5a5a 48q,#f66 51q,#ff7a7a 53q,#ff9191 54q,#ffcbcb 55q,#d8d8ff 56q,#8a8aff 57q,#66f 58q,#33f 61q,#1414ff 67q,#2828ff 73q,#77f 82q,#7272ff 85q,#3c3cff 93q,#3d3dff 100q,#b3b3ff 117q,#c5c5ff 121q,#d4d4ff 127q,#dcdcff 133q,#eef 158q,#f6f6ff 179q,#fbfbff 213q,#fafaff 230q,#fcfcff 263q"></i><i style="--g:#fff 0,#f4f4ff 2q,#f1f1ff 3q,#f1f1ff 4q,#f5f5ff 5q,#fffefe 6q,#ffeaea 7q,#fcc 8q,#ffa1a1 9q,#ff8585 10q,#ff3b3b 14q,#f22 19q,#ff3c3c 35q,#ff4141 50q,#ff5b5b 55q,#ff8686 57q,#ffd5d5 58q,#adadff 59q,#7373ff 60q,#55f 61q,#3636ff 63q,#1b1bff 68q,#2e2eff 74q,#77f 82q,#8080ff 84q,#77f 86q,#44f 93q,#3a3aff 100q,#8e8eff 115q,#b6b6ff 125q,#c6c6ff 131q,#cfcfff 137q,#e6e6ff 160q,#f2f2ff 184q,#f9f9ff 217q,#fafaff 263q"></i><i style="--g:#fff 0,#dcdcff 2q,#ceceff 3q,#bbf 5q,#bcbcff 6q,#c7c7ff 7q,#dedeff 8q,#fff7f7 9q,#ffb9b9 10q,#ff8585 11q,#f66 12q,#ff3d3d 14q,#ff1f1f 17q,#ff1919 20q,#ff2f2f 36q,#f33 53q,#ff4949 57q,#ff6e6e 59q,#ff9d9d 60q,#dcdcff 61q,#7e7eff 62q,#5c5cff 63q,#3b3bff 65q,#22f 70q,#3e3eff 76q,#88f 83q,#9090ff 85q,#8585ff 87q,#4b4bff 93q,#3a3aff 100q,#9090ff 119q,#bbf 134q,#dadaff 157q,#eef 188q,#f7f7ff 221q,#f9f9ff 263q"></i><i style="--g:#fff 0,#acacff 3q,#9393ff 5q,#8f8fff 7q,#9595ff 8q,#aaf 9q,#e6e6ff 10q,#ffc0c0 11q,#ff7c7c 12q,#ff5a5a 13q,#f33 15q,#ff1717 18q,#f11 21q,#ff2626 37q,#ff2525 55q,#ff3e3e 59q,#ff6262 61q,#f88 62q,#fffefe 63q,#8a8aff 64q,#6464ff 65q,#4f4fff 66q,#3939ff 68q,#2f2fff 71q,#3b3bff 75q,#55f 78q,#b8b8ff 85q,#babaff 86q,#66f 92q,#44f 96q,#3d3dff 101q,#88f 120q,#b4b4ff 136q,#d7d7ff 160q,#ebebff 191q,#f5f5ff 225q,#f9f9ff 263q"></i><i style="--g:#fff 0,#b1b1ff 2q,#9797ff 3q,#88f 4q,#77f 6q,#77f 8q,#7f7fff 9q,#9393ff 10q,#dadaff 11q,#faa 12q,#ff6c6c 13q,#ff4c4c 14q,#ff2727 16q,#f11 21q,#f22 38q,#ff1919 55q,#ff3838 61q,#ff5b5b 63q,#ff7e7e 64q,#ffdfdf 65q,#9b9bff 66q,#6f6fff 67q,#5959ff 68q,#3d3dff 72q,#44f 75q,#5b5bff 78q,#77f 80q,#9e9eff 82q,#e3e3ff 84q,#f9f9ff 85q,#fffafa 86q,#fffcfc 87q,#f5f5ff 88q,#ddf 89q,#99f 91q,#7272ff 93q,#5b5bff 95q,#4242ff 101q,#4b4bff 106q,#88f 122q,#b2b2ff 138q,#d5d5ff 162q,#e8e8ff 193q,#f4f4ff 228q,#f8f8ff 263q"></i><i style="--g:#fff 0,#a2a2ff 2q,#7d7dff 4q,#6b6bff 6q,#6868ff 9q,#7373ff 10q,#8d8dff 11q,#ececff 12q,#ff8b8b 13q,#ff5a5a 14q,#ff2c2c 16q,#ff1818 18q,#f11 22q,#ff1e1e 39q,#f11 56q,#ff2a2a 62q,#ff5858 65q,#f77 66q,#ffc1c1 67q,#c0c0ff 68q,#8080ff 69q,#5c5cff 71q,#5151ff 73q,#5858ff 76q,#6868ff 78q,#88f 80q,#9f9fff 81q,#fbfbff 83q,#ffdede 84q,#ffc1c1 85q,#ffaeae 86q,#ffa6a6 87q,#faa 88q,#ffb9b9 89q,#ffd4d4 90q,#fff9f9 91q,#d8d8ff 92q,#a4a4ff 93q,#88f 94q,#6868ff 96q,#5050ff 99q,#4848ff 103q,#8c8cff 124q,#b6b6ff 141q,#d5d5ff 164q,#dbdbff 171q,#e9e9ff 199q,#f3f3ff 230q,#f7f7ff 263q"></i><i style="--g:#fff 0,#c8c8ff 1q,#99f 2q,#7474ff 4q,#5959ff 8q,#6060ff 10q,#6e6eff 11q,#9292ff 12q,#ffe5e5 13q,#ff7373 14q,#ff4c4c 15q,#ff3535 16q,#ff1d1d 18q,#f11 21q,#ff1d1d 40q,#ff0b0b 56q,#ff1919 62q,#f44 66q,#ff7272 68q,#ffa0a0 69q,#f5f5ff 70q,#a0a0ff 71q,#8383ff 72q,#7575ff 73q,#6f6fff 76q,#8f8fff 79q,#a8a8ff 80q,#d9d9ff 81q,#fff5f5 82q,#ffc7c7 83q,#ffa1a1 84q,#ff8585 86q,#ff7e7e 88q,#ff8686 90q,#ff9191 91q,#ffa7a7 92q,#ffd6d6 93q,#f2f2ff 94q,#b9b9ff 95q,#9191ff 96q,#7c7cff 97q,#6363ff 99q,#5151ff 104q,#b9b9ff 142q,#d7d7ff 166q,#ddf 173q,#eaeaff 202q,#f3f3ff 234q,#f7f7ff 263q"></i><i style="--g:#fff 0,#c4c4ff 1q,#9696ff 2q,#7f7fff 3q,#66f 5q,#5050ff 9q,#5c5cff 11q,#6f6fff 12q,#a2a2ff 13q,#ffacac 14q,#ff6363 15q,#f33 17q,#ff1f1f 19q,#ff1f1f 42q,#ff0707 58q,#f11 63q,#f33 67q,#ff6c6c 70q,#ff8c8c 71q,#ffcaca 72q,#f1f1ff 73q,#c2c2ff 74q,#a6a6ff 75q,#9f9fff 76q,#a2a2ff 77q,#b3b3ff 78q,#d0d0ff 79q,#f4f4ff 80q,#ffe0e0 81q,#ffb4b4 82q,#ff9595 83q,#f77 85q,#f66 89q,#ff7474 92q,#ff9292 94q,#ffb8b8 95q,#fff2f2 96q,#d1d1ff 97q,#9d9dff 98q,#77f 100q,#66f 102q,#5d5dff 105q,#c0c0ff 143q,#e1e1ff 175q,#ececff 205q,#f4f4ff 237q,#f7f7ff 263q"></i><i style="--g:#fff 0,#c3c3ff 1q,#9595ff 2q,#7e7eff 3q,#6262ff 5q,#4a4aff 9q,#5050ff 11q,#7474ff 13q,#c4c4ff 14q,#ff9393 15q,#ff5d5d 16q,#f33 18q,#f22 21q,#f22 42q,#ff0404 59q,#f22 67q,#f66 72q,#ff9595 74q,#ffd4d4 76q,#ffe1e1 77q,#ffdfdf 78q,#ffd1d1 79q,#ff9d9d 81q,#ff7d7d 83q,#ff5858 88q,#ff6060 93q,#ff8686 96q,#ffa1a1 97q,#ffd9d9 98q,#ececff 99q,#b8b8ff 100q,#9595ff 101q,#7373ff 104q,#6b6bff 108q,#bdbdff 138q,#c9c9ff 144q,#e6e6ff 177q,#efefff 209q,#f8f8ff 263q"></i><i style="--g:#fff 0,#c4c4ff 1q,#9696ff 2q,#7f7fff 3q,#6262ff 5q,#44f 10q,#4e4eff 12q,#5b5bff 13q,#77f 14q,#cfcfff 15q,#ff9595 16q,#ff6464 17q,#ff3f3f 19q,#ff2f2f 22q,#ff2c2c 43q,red 61q,#ff2626 69q,#ff7b7b 76q,#ff8b8b 78q,#f88 80q,#ff5d5d 85q,#ff4b4b 89q,#ff5252 94q,#ff6e6e 97q,#ff9494 99q,#ffbdbd 100q,#fff2f2 101q,#ddf 102q,#b5b5ff 103q,#9b9bff 104q,#8e8eff 105q,#7e7eff 109q,#a4a4ff 126q,#c8c8ff 138q,#d4d4ff 145q,#ececff 179q,#f3f3ff 212q,#f8f8ff 263q"></i><i style="--g:#fff 0,#c9c9ff 1q,#99f 2q,#8383ff 3q,#66f 5q,#4c4cff 8q,#44f 11q,#4c4cff 13q,#7171ff 15q,#a5a5ff 16q,#ffd1d1 17q,#ff8080 18q,#f55 20q,#f44 24q,#ff3939 44q,red 62q,#ff1a1a 69q,#f66 77q,#ff6e6e 79q,#ff6c6c 81q,#ff4747 88q,#ff4040 92q,#f55 97q,#f77 100q,#ffa1a1 102q,#fff6f6 104q,#e6e6ff 105q,#cacaff 106q,#b5b5ff 107q,#a5a5ff 108q,#9e9eff 109q,#99f 112q,#a4a4ff 119q,#bdbdff 127q,#d2d2ff 136q,#e0e0ff 146q,#f1f1ff 181q,#f8f8ff 215q,#fafaff 263q"></i><i style="--g:#fff 0,#a2a2ff 2q,#8a8aff 3q,#6c6cff 5q,#4141ff 11q,#4747ff 14q,#6060ff 16q,#77f 17q,#a0a0ff 18q,#f9f9ff 19q,#ffb9b9 20q,#ff8f8f 21q,#ff7373 23q,#ff6868 25q,#ff5050 44q,#ff0404 63q,#f11 69q,#ff6060 80q,#ff3d3d 90q,#ff3b3b 94q,#ff5252 99q,#ff8080 103q,#ffa8a8 105q,#ffcaca 106q,#ffe6e6 107q,#fffdfd 108q,#e2e2ff 110q,#d2d2ff 112q,#cacaff 115q,#e8e8ff 139q,#eef 146q,#f0f0ff 166q,#f7f7ff 185q,#fcfcff 218q,#fcfcff 263q"></i><i style="--g:#fff 0,#b3b3ff 2q,#9696ff 3q,#6060ff 7q,#3b3bff 13q,#44f 16q,#55f 18q,#9393ff 22q,#e7e7ff 25q,#fdfdff 26q,#ffdfdf 28q,#ffc8c8 30q,#ffa6a6 34q,#ff7e7e 44q,#f22 57q,#ff0707 65q,#ff1515 70q,#ff5858 81q,#f33 94q,#f44 99q,#ff6262 103q,#ffa1a1 108q,#ffcaca 110q,#ffd9d9 111q,#fee 113q,#fffafa 115q,#fffdfd 116q,#fefeff 117q,#f9f9ff 121q,#f8f8ff 127q,#fdfdff 147q,#fafaff 169q,#fff 209q,#fff 263q"></i><i style="--g:#fff 0,#adadff 3q,#99f 4q,#6f6fff 7q,#44f 11q,#33f 15q,#3a3aff 19q,#6d6dff 28q,#ababff 42q,#d0d0ff 45q,#f6f6ff 47q,#ffeded 48q,#fcc 49q,#ffa4a4 50q,#ff8b8b 51q,#f66 53q,#f33 57q,#ff1717 61q,#ff0b0b 66q,#ff1717 71q,#f55 82q,#f33 93q,#ff3f3f 100q,#ff6969 106q,#ffc5c5 116q,#ffd4d4 119q,#ffe1e1 124q,#ffe9e9 130q,#fffbfb 170q,#fffcfc 180q,#fffbfb 226q,#fffdfd 263q"></i><i style="--g:#fff 0,#e4e4ff 2q,#d4d4ff 3q,#9696ff 6q,#4d4dff 11q,#2525ff 16q,#66f 46q,#7c7cff 50q,#8b8bff 51q,#a6a6ff 52q,#e5e5ff 53q,#ffcfcf 54q,#ff8e8e 55q,#ff6f6f 56q,#ff3b3b 59q,#ff1a1a 63q,#f11 67q,#ff1c1c 72q,#f55 83q,#f33 94q,#ff3939 100q,#ff9494 115q,#ffbdbd 124q,#fcc 130q,#ffd5d5 136q,#ffebeb 160q,#fff5f5 180q,#fff9f9 210q,#fff9f9 230q,#fffbfb 263q"></i><i style="--g:#fff 0,#fffdfd 2q,#fff 3q,#f8f8ff 4q,#ededff 5q,#dadaff 6q,#99f 8q,#6c6cff 10q,#2d2dff 14q,#1717ff 19q,#4949ff 50q,#5b5bff 53q,#7c7cff 55q,#a3a3ff 56q,#fff5f5 57q,#ff9393 58q,#ff6c6c 59q,#f44 61q,#ff2626 64q,#ff1818 69q,#ff5c5c 84q,#ff3636 94q,#ff3838 101q,#ff9090 119q,#ffbebe 135q,#ffd9d9 155q,#ffe2e2 165q,#fff0f0 186q,#fff7f7 215q,#fff9f9 263q"></i><i style="--g:#fff 0,#ffe1e1 2q,#fcc 4q,#ffcbcb 5q,#ffd2d2 6q,#ffe4e4 7q,#f8f8ff 8q,#8c8cff 10q,#5252ff 12q,#2e2eff 14q,#11f 17q,#0e0eff 20q,#33f 52q,#4d4dff 56q,#7373ff 58q,#9f9fff 59q,#ffe5e5 60q,#ff8585 61q,#ff6262 62q,#ff3f3f 64q,#ff2828 67q,#f22 70q,#ff3030 75q,#f66 84q,#ff6161 87q,#ff3939 95q,#ff3737 101q,#f88 121q,#ffadad 136q,#ffd4d4 160q,#ffebeb 191q,#fff5f5 220q,#fff8f8 263q"></i><i style="--g:#fff 0,#faa 3q,#ff9c9c 4q,#ff9191 6q,#ff9494 7q,#ffa1a1 8q,#ffcdcd 9q,#e5e5ff 10q,#8d8dff 11q,#6363ff 12q,#22f 15q,#0707ff 20q,#22f 52q,#3e3eff 58q,#5c5cff 60q,#7a7aff 61q,#c5c5ff 62q,#ffb2b2 63q,#ff7575 64q,#ff4a4a 66q,#ff3838 68q,#ff2f2f 71q,#ff3838 75q,#ff7979 85q,#f77 87q,#f44 95q,#ff3939 101q,#ff8080 121q,#f99 131q,#fcc 161q,#ffe7e7 194q,#fff3f3 224q,#fff7f7 263q"></i><i style="--g:#fff 0,#faa 2q,#ff9393 3q,#ff8585 4q,#ff7474 7q,#ff8484 9q,#ffa4a4 10q,#ededff 11q,#8080ff 12q,#55f 13q,#2626ff 15q,#11f 17q,#0404ff 21q,#1c1cff 56q,#3f3fff 61q,#66f 63q,#8f8fff 64q,#fff 65q,#ff9292 66q,#ff6e6e 67q,#ff5a5a 68q,#ff4040 72q,#f55 78q,#ff9393 84q,#ff9d9d 86q,#ff9494 88q,#ff5050 95q,#ff4040 99q,#ff3f3f 103q,#ff7e7e 122q,#f99 133q,#fcc 164q,#ffe5e5 198q,#fff1f1 228q,#fff6f6 263q"></i><i style="--g:#fff 0,#ffc9c9 1q,#ff9b9b 2q,#f77 4q,#ff6262 7q,#f66 9q,#f77 10q,#ff9c9c 11q,#d2d2ff 12q,#6c6cff 13q,#44f 14q,#1c1cff 16q,#00f 21q,#11f 37q,#11f 57q,#2d2dff 62q,#5b5bff 65q,#77f 66q,#b4b4ff 67q,#ffd9d9 68q,#ff8d8d 69q,#ff7373 70q,#ff5858 73q,#ff6161 77q,#ff7e7e 80q,#ffa0a0 82q,#ffdcdc 84q,#fff0f0 85q,#fffbfb 86q,#fffefe 87q,#fff6f6 88q,#ffe5e5 89q,#ffcaca 90q,#ffa8a8 91q,#ff9191 92q,#ff5d5d 96q,#f44 102q,#ff9b9b 135q,#ffcbcb 165q,#ffe2e2 197q,#fff0f0 231q,#fff6f6 263q"></i><i style="--g:#fff 0,#ffc1c1 1q,#ff9393 2q,#ff7c7c 3q,#ff6262 5q,#f55 9q,#ff7070 11q,#faa 12q,#9b9bff 13q,#5858ff 14q,#3838ff 15q,#0e0eff 18q,#0404ff 22q,#11f 38q,#0b0bff 58q,#22f 63q,#5252ff 67q,#88f 69q,#ccf 70q,#ffe1e1 71q,#ffa3a3 72q,#ff8c8c 73q,#ff7d7d 75q,#ff8b8b 78q,#f99 79q,#ffb1b1 80q,#fffafa 82q,#e2e2ff 83q,#c4c4ff 84q,#acacff 85q,#9b9bff 87q,#a1a1ff 89q,#b3b3ff 90q,#d0d0ff 91q,#f4f4ff 92q,#ffdfdf 93q,#ffafaf 94q,#ff9090 95q,#f66 98q,#ff4e4e 104q,#ff9696 132q,#ffadad 144q,#ffcdcd 166q,#ffd4d4 174q,#ffe4e4 202q,#fff0f0 232q,#fff5f5 263q"></i><i style="--g:#fff 0,#fbb 1q,#ff8d8d 2q,#f66 4q,#f55 6q,#ff4a4a 9q,#ff5959 11q,#ff7373 12q,#ffd8d8 13q,#7c7cff 14q,#4b4bff 15q,#22f 17q,#0b0bff 20q,#11f 40q,#0404ff 56q,#0e0eff 62q,#33f 67q,#5d5dff 70q,#8b8bff 72q,#b1b1ff 73q,#e1e1ff 74q,#fff 75q,#fee 76q,#ffebeb 77q,#fff4f4 78q,#f8f8ff 79q,#dfdfff 80q,#a3a3ff 82q,#8686ff 84q,#77f 86q,#77f 90q,#88f 92q,#99f 93q,#bbf 94q,#ededff 95q,#ffdede 96q,#faa 97q,#ff8e8e 98q,#ff7171 100q,#ff5e5e 103q,#ff5a5a 106q,#ffb5b5 144q,#ffd9d9 175q,#ffe6e6 204q,#fff0f0 236q,#fff5f5 263q"></i><i style="--g:#fff 0,#ffb8b8 1q,#ff8b8b 2q,#ff7474 3q,#ff5959 5q,#f44 9q,#ff5959 12q,#ff7b7b 13q,#f1f1ff 14q,#6b6bff 15q,#44f 16q,#22f 18q,#11f 21q,#1717ff 41q,#00f 58q,#0909ff 63q,#2828ff 68q,#88f 76q,#9292ff 78q,#66f 85q,#5c5cff 88q,#6363ff 92q,#8282ff 95q,#9696ff 96q,#bdbdff 97q,#f1f1ff 98q,#ffdada 99q,#faa 100q,#ff9191 101q,#f77 103q,#ff6868 108q,#ffc0c0 145q,#ffe0e0 177q,#ffebeb 208q,#fff6f6 263q"></i><i style="--g:#fff 0,#ffb9b9 1q,#ff8b8b 2q,#ff7575 3q,#ff5858 5q,#ff3e3e 10q,#ff4949 12q,#ff5b5b 13q,#ff8383 14q,#d9d9ff 15q,#6a6aff 16q,#4848ff 17q,#33f 18q,#1c1cff 22q,#1e1eff 41q,#00f 60q,#1a1aff 68q,#6969ff 78q,#4c4cff 90q,#5757ff 94q,#7373ff 97q,#99f 99q,#f3f3ff 101q,#ffdfdf 102q,#ffb9b9 103q,#ff9e9e 104q,#f88 106q,#ff7c7c 110q,#ffa3a3 129q,#ffc3c3 140q,#ffcdcd 146q,#ffe8e8 180q,#fff0f0 210q,#fff7f7 263q"></i><i style="--g:#fff 0,#ffbdbd 1q,#ff8f8f 2q,#f77 3q,#ff5a5a 5q,#ff3b3b 10q,#ff4848 13q,#ff5a5a 14q,#ff7e7e 15q,#fff 16q,#7e7eff 17q,#5959ff 18q,#3b3bff 20q,#2e2eff 23q,#2929ff 42q,#00f 61q,#11f 68q,#55f 79q,#4141ff 90q,#4a4aff 95q,#6a6aff 99q,#88f 101q,#9c9cff 102q,#e8e8ff 104q,#fff4f4 105q,#ffd8d8 106q,#ffafaf 108q,#ff9d9d 110q,#f99 113q,#ffa5a5 122q,#ffcfcf 138q,#ffdbdb 146q,#ffefef 182q,#fff5f5 213q,#fff9f9 263q"></i><i style="--g:#fff 0,#ffc4c4 1q,#ff9595 2q,#ff7e7e 3q,#ff6060 5q,#ff3838 11q,#ff3c3c 13q,#ff5151 15q,#ff6868 16q,#ff9595 17q,#f1f1ff 18q,#8f8fff 19q,#7070ff 20q,#55f 22q,#4c4cff 24q,#3a3aff 43q,#00f 63q,#11f 69q,#4b4bff 80q,#3939ff 91q,#4141ff 96q,#5959ff 100q,#7a7aff 103q,#99f 105q,#e9e9ff 108q,#fdfdff 109q,#ffe5e5 111q,#ffdcdc 112q,#ffd1d1 114q,#ffcbcb 118q,#ffe6e6 140q,#ffebeb 147q,#fee 165q,#fff6f6 186q,#fffbfb 217q,#fffbfb 263q"></i><i style="--g:#fff 0,#ffa0a0 2q,#f88 3q,#ff6969 5q,#ff4b4b 8q,#f33 12q,#ff3a3a 15q,#ff4d4d 17q,#ff7171 19q,#ff8d8d 20q,#ffbfbf 21q,#fffbfb 22q,#d4d4ff 23q,#aeaeff 24q,#99f 25q,#7c7cff 29q,#5b5bff 43q,#1515ff 57q,#0404ff 64q,#11f 70q,#44f 80q,#3636ff 95q,#5e5eff 103q,#9f9fff 109q,#c2c2ff 111q,#dcdcff 113q,#ededff 115q,#fafaff 118q,#fff 120q,#fffbfb 123q,#fff9f9 129q,#fffdfd 147q,#fff9f9 170q,#fff 208q,#fffefe 263q"></i><i style="--g:#fff 0,#ffb6b6 2q,#f99 3q,#f55 8q,#f33 12q,#ff2b2b 15q,#f44 20q,#ffa0a0 31q,#fff4f4 38q,#fefeff 39q,#e4e4ff 41q,#9f9fff 45q,#3c3cff 54q,#1a1aff 59q,#0909ff 65q,#11f 70q,#44f 82q,#33f 94q,#44f 101q,#c1c1ff 118q,#cfcfff 121q,#ddf 126q,#e5e5ff 132q,#f7f7ff 161q,#fbfbff 171q,#fcfcff 181q,#fbfbff 225q,#fdfdff 263q"></i><i style="--g:#fff 0,#ffd4d4 2q,#ffa1a1 4q,#ff5858 9q,#f22 15q,#f22 19q,#ff6e6e 42q,#ff8e8e 47q,#ff9d9d 48q,#ffbebe 49q,#ffeaea 50q,#dfdfff 51q,#a3a3ff 52q,#8383ff 53q,#5b5bff 55q,#3636ff 58q,#1a1aff 62q,#11f 67q,#44f 83q,#3030ff 94q,#3a3aff 101q,#9191ff 117q,#b9b9ff 127q,#d1d1ff 139q,#eaeaff 163q,#f4f4ff 180q,#f8f8ff 207q,#fbfbff 263q"></i><i style="--g:#fff 0,#fff4f4 2q,#ffebeb 3q,#fdd 4q,#ffcaca 5q,#ff9595 7q,#ff6d6d 9q,#ff2e2e 13q,#f11 18q,#ff5050 48q,#ff6464 51q,#ff8282 53q,#ffa3a3 54q,#fff6f6 55q,#acacff 56q,#7c7cff 57q,#5050ff 59q,#3737ff 61q,#1717ff 68q,#4747ff 83q,#33f 95q,#3636ff 101q,#88f 120q,#b1b1ff 135q,#d5d5ff 157q,#e6e6ff 175q,#eef 187q,#f5f5ff 213q,#f8f8ff 263q"></i><i style="--g:#fff 0,#e9e9ff 2q,#e2e2ff 3q,#dfdfff 4q,#e4e4ff 5q,#f1f1ff 6q,#fff2f2 7q,#ffc6c6 8q,#ff9393 9q,#ff5959 11q,#f33 13q,#f11 16q,#ff0707 19q,#ff3737 50q,#ff4d4d 54q,#f66 56q,#ff8181 57q,#ffbebe 58q,#d2d2ff 59q,#8484ff 60q,#66f 61q,#3838ff 64q,#22f 71q,#5151ff 85q,#33f 99q,#9494ff 129q,#ccf 160q,#e2e2ff 182q,#eaeaff 193q,#f3f3ff 219q,#f7f7ff 263q"></i><i style="--g:#fff 0,#c9c9ff 2q,#b2b2ff 3q,#a1a1ff 4q,#9b9bff 5q,#a2a2ff 7q,#c1c1ff 8q,#fbfbff 9q,#ffa8a8 10q,#ff7373 11q,#ff5252 12q,#ff2727 14q,#ff0707 17q,red 20q,#ff2626 52q,#ff3939 56q,#ff5e5e 59q,#f77 60q,#ffafaf 61q,#d7d7ff 62q,#8585ff 63q,#66f 64q,#4747ff 66q,#33f 69q,#33f 73q,#5b5bff 83q,#5e5eff 86q,#3636ff 100q,#9090ff 131q,#c6c6ff 163q,#dedeff 187q,#e6e6ff 198q,#f1f1ff 224q,#f6f6ff 263q"></i><i style="--g:#fff 0,#aaf 2q,#9393ff 3q,#7d7dff 5q,#7e7eff 8q,#8f8fff 9q,#d0d0ff 10q,#ffaeae 11q,#ff6969 12q,#f44 13q,#ff1b1b 15q,red 19q,#ff1b1b 54q,#f33 59q,#ff5e5e 62q,#ff7a7a 63q,#ffb6b6 64q,#d5d5ff 65q,#88f 66q,#6c6cff 67q,#5151ff 69q,#44f 72q,#44f 75q,#77f 86q,#44f 96q,#3c3cff 102q,#9090ff 133q,#c3c3ff 165q,#e3e3ff 201q,#efefff 228q,#f5f5ff 263q"></i><i style="--g:#fff 0,#c7c7ff 1q,#99f 2q,#8383ff 3q,#66f 6q,#6a6aff 9q,#7d7dff 10q,#c5c5ff 11q,#ff9696 12q,#ff5858 13q,#ff3737 14q,#f11 16q,red 19q,#f11 56q,#f33 62q,#ff6262 65q,#ff7e7e 66q,#ffb9b9 67q,#e4e4ff 68q,#99f 69q,#7d7dff 70q,#6e6eff 71q,#5e5eff 74q,#6363ff 77q,#a8a8ff 86q,#a0a0ff 88q,#5c5cff 95q,#44f 103q,#9393ff 135q,#c2c2ff 166q,#e0e0ff 201q,#eef 231q,#f4f4ff 263q"></i><i style="--g:#fff 0,#bdbdff 1q,#8f8fff 2q,#6a6aff 4q,#5252ff 8q,#5f5fff 10q,#77f 11q,#e0e0ff 12q,#ff7979 13q,#ff4747 14q,#ff2b2b 15q,#ff0c0c 17q,red 19q,#ff0b0b 57q,#ff1e1e 62q,#f44 66q,#ff7f7f 69q,#ffa4a4 70q,#ffebeb 71q,#d9d9ff 72q,#aeaeff 73q,#99f 74q,#8f8fff 76q,#a1a1ff 79q,#b5b5ff 80q,#fafaff 83q,#fff1f1 84q,#ffe3e3 85q,#ffdbdb 86q,#ffdada 87q,#ffe0e0 88q,#ffeded 89q,#fdfdff 90q,#e3e3ff 91q,#a0a0ff 93q,#7e7eff 95q,#6868ff 97q,#55f 100q,#4d4dff 104q,#99f 137q,#c6c6ff 167q,#ddf 199q,#eef 234q,#f4f4ff 263q"></i><i style="--g:#fff 0,#b5b5ff 1q,#88f 2q,#7373ff 3q,#5858ff 5q,#4747ff 8q,#4d4dff 10q,#5b5bff 11q,#7d7dff 12q,#ffe1e1 13q,#ff6262 14q,#ff3a3a 15q,#f22 16q,#ff0a0a 18q,red 21q,#ff0404 57q,#ff2a2a 66q,#f77 72q,#ffcece 76q,#ffd8d8 77q,#ffd7d7 78q,#ffd0d0 79q,#ffa1a1 82q,#ff8e8e 84q,#ff8383 87q,#ff8d8d 90q,#faa 92q,#fff2f2 94q,#e2e2ff 95q,#b6b6ff 96q,#9696ff 97q,#6f6fff 100q,#5959ff 106q,#afafff 147q,#ccf 168q,#d4d4ff 177q,#ededff 234q,#f4f4ff 263q"></i><i style="--g:#fff 0,#b1b1ff 1q,#8686ff 2q,#6f6fff 3q,#4b4bff 6q,#3f3fff 9q,#4a4aff 11q,#5c5cff 12q,#8c8cff 13q,#ff9f9f 14q,#f55 15q,#f22 17q,#ff0d0d 19q,red 57q,#f22 67q,#ff7070 76q,#ff7979 78q,#ff6464 89q,#f77 93q,#ff9393 95q,#ffb0b0 96q,#ffdcdc 97q,#f5f5ff 98q,#a3a3ff 100q,#8f8fff 101q,#7a7aff 103q,#6969ff 109q,#bbf 147q,#d5d5ff 170q,#dbdbff 178q,#efefff 238q,#f4f4ff 263q"></i><i style="--g:#fff 0,#b1b1ff 1q,#8585ff 2q,#6f6fff 3q,#4949ff 6q,#3a3aff 9q,#3e3eff 11q,#6060ff 13q,#9f9fff 14q,#ff8b8b 15q,#ff5050 16q,#ff2525 18q,#ff1515 20q,#ff1414 41q,red 58q,#ff1414 67q,#ff5959 78q,#ff5353 91q,#ff5f5f 94q,#ff7c7c 97q,#ffa2a2 99q,#fff6f6 101q,#e1e1ff 102q,#a3a3ff 104q,#8686ff 107q,#7d7dff 111q,#8a8aff 120q,#bdbdff 140q,#c8c8ff 147q,#e4e4ff 180q,#ededff 210q,#f6f6ff 263q"></i><i style="--g:#fff 0,#b4b4ff 1q,#88f 2q,#55f 5q,#3636ff 10q,#3d3dff 12q,#6060ff 14q,#9d9dff 15q,#ff9797 16q,#ff5b5b 17q,#ff4141 18q,#ff2929 20q,#ff1d1d 24q,#ff1d1d 42q,red 60q,#ff0d0d 67q,#ff4949 79q,#ff4b4b 94q,#ff6363 98q,#f88 101q,#ff9b9b 102q,#fbb 103q,#fffdfd 105q,#e6e6ff 106q,#bdbdff 108q,#a4a4ff 110q,#99f 114q,#a4a4ff 123q,#cbcbff 138q,#d8d8ff 147q,#ededff 182q,#f3f3ff 211q,#f8f8ff 263q"></i><i style="--g:#fff 0,#bbf 1q,#8d8dff 2q,#5858ff 5q,#33f 10q,#44f 14q,#5858ff 15q,#7d7dff 16q,#f8f8ff 17q,#ff8686 18q,#ff6161 19q,#f44 21q,#ff3636 24q,#ff2c2c 42q,red 62q,#ff0c0c 68q,#ff3f3f 80q,#ff3a3a 91q,#f44 96q,#ff6363 101q,#ff8484 104q,#ffa3a3 106q,#ffd7d7 108q,#ffebeb 109q,#fffcfc 110q,#f4f4ff 111q,#e0e0ff 113q,#d2d2ff 116q,#cdcdff 120q,#e9e9ff 147q,#f6f6ff 187q,#f9f9ff 215q,#fafaff 263q"></i><i style="--g:#fff 0,#c5c5ff 1q,#9797ff 2q,#7f7fff 3q,#6060ff 5q,#44f 8q,#3030ff 12q,#3b3bff 15q,#5858ff 17q,#7272ff 18q,#9e9eff 19q,#fff 20q,#ffabab 21q,#f88 22q,#ff6c6c 24q,#ff6161 26q,#f44 42q,#ff0505 63q,#ff3a3a 81q,#ff3a3a 96q,#ff5c5c 103q,#ffa0a0 110q,#ffbfbf 112q,#ffd7d7 114q,#ffeded 117q,#fff9f9 120q,#fff 123q,#fbfbff 126q,#fafaff 130q,#fcfcff 147q,#f9f9ff 166q,#fff 207q,#fdfdff 263q"></i><i style="--g:#fff 0,#a6a6ff 2q,#8d8dff 3q,#6d6dff 5q,#44f 9q,#2b2bff 13q,#2d2dff 16q,#44f 19q,#9696ff 25q,#e2e2ff 28q,#f8f8ff 29q,#fff3f3 30q,#ffd3d3 32q,#faa 35q,#ff2d2d 54q,#ff0909 65q,#ff3737 81q,#f33 94q,#f44 101q,#fbb 119q,#ffcece 123q,#ffdbdb 128q,#ffe3e3 133q,#fff5f5 159q,#fffafa 170q,#fffdfd 263q"></i><i style="--g:#fff 0,#a5a5ff 3q,#5a5aff 8q,#3030ff 12q,#1d1dff 16q,#8383ff 39q,#a6a6ff 43q,#d8d8ff 45q,#f6f6ff 46q,#ffe5e5 47q,#f99 49q,#ff7373 51q,#f44 55q,#f22 60q,#f11 66q,#ff3838 82q,#ff3030 95q,#ff3b3b 101q,#ff9292 119q,#fbb 130q,#ffd2d2 143q,#ffe9e9 164q,#fff2f2 179q,#fff7f7 203q,#fffafa 263q"></i><i style="--g:#fff 0,#e6e6ff 2q,#d7d7ff 3q,#a9a9ff 5q,#7070ff 8q,#2828ff 13q,#11f 18q,#5959ff 45q,#6a6aff 48q,#8282ff 50q,#99f 51q,#c9c9ff 52q,#fff3f3 53q,#faa 54q,#ff8282 55q,#ff5959 57q,#ff4040 59q,#f22 63q,#ff1818 68q,#ff3d3d 83q,#ff3737 101q,#f88 122q,#ffb1b1 138q,#ffd4d4 159q,#ffe6e6 176q,#ffeded 188q,#fff3f3 212q,#fff8f8 263q"></i><i style="--g:#fff 0,#fff4f4 2q,#fff3f3 3q,#fff6f6 4q,#fff 5q,#eaeaff 6q,#c9c9ff 7q,#9c9cff 8q,#7e7eff 9q,#2b2bff 13q,#0d0dff 16q,#0505ff 19q,#4141ff 49q,#5c5cff 53q,#7d7dff 55q,#a0a0ff 56q,#f6f6ff 57q,#faa 58q,#ff7d7d 59q,#ff6464 60q,#ff4646 62q,#ff2f2f 65q,#f22 69q,#f44 84q,#f33 96q,#ff3838 102q,#ff7a7a 121q,#ff9292 131q,#ffcfcf 166q,#ffe2e2 184q,#ffeaea 196q,#fff1f1 219q,#fff6f6 263q"></i><i style="--g:#fff 0,#ffd1d1 2q,#ffb1b1 4q,#faa 5q,#ffafaf 6q,#ffc2c2 7q,#ffe9e9 8q,#d3d3ff 9q,#8a8aff 10q,#6464ff 11q,#33f 13q,#11f 15q,#00f 18q,#2d2dff 51q,#4242ff 55q,#66f 58q,#8181ff 59q,#bbf 60q,#ffdfdf 61q,#ff8f8f 62q,#ff6f6f 63q,#ff4f4f 65q,#f33 71q,#ff5151 85q,#ff3737 100q,#ff8c8c 132q,#ffc5c5 166q,#ffdcdc 187q,#ffe6e6 201q,#ffefef 224q,#fff5f5 263q"></i><i style="--g:#fff 0,#ffb1b1 2q,#f99 3q,#ff7e7e 6q,#f88 8q,#ffa3a3 9q,#fff 10q,#8c8cff 11q,#5b5bff 12q,#3c3cff 13q,#1515ff 15q,#00f 18q,#22f 53q,#3939ff 58q,#5e5eff 61q,#7575ff 62q,#9b9bff 63q,#f8f8ff 64q,#ffa7a7 65q,#ff7f7f 66q,#ff6a6a 67q,#f55 69q,#f44 73q,#f66 86q,#ff4141 97q,#ff3f3f 104q,#ff8c8c 134q,#ffc2c2 169q,#ffdbdb 193q,#ffe5e5 208q,#fee 230q,#fff4f4 263q"></i><i style="--g:#fff 0,#ffc9c9 1q,#ff9b9b 2q,#f77 4q,#f66 6q,#f66 8q,#ff7171 9q,#ff8b8b 10q,#fff6f6 11q,#7d7dff 12q,#4c4cff 13q,#2e2eff 14q,#0c0cff 16q,#00f 18q,#1717ff 55q,#3636ff 61q,#5a5aff 64q,#8d8dff 66q,#ceceff 67q,#ffe0e0 68q,#ff9e9e 69q,#ff8484 70q,#f77 71q,#f66 73q,#ff6464 76q,#ff8686 86q,#ff4f4f 97q,#f44 104q,#ff8e8e 135q,#ffbfbf 168q,#ffe0e0 205q,#ffeded 232q,#fff3f3 263q"></i><i style="--g:#fff 0,#ffbdbd 1q,#ff8f8f 2q,#ff6a6a 4q,#f55 8q,#f66 10q,#ff8585 11q,#e7e7ff 12q,#66f 13q,#3c3cff 14q,#22f 15q,#00f 18q,#11f 57q,#33f 64q,#6969ff 68q,#9c9cff 70q,#d2d2ff 71q,#fffafa 72q,#ffd4d4 73q,#ffb7b7 74q,#ffa5a5 75q,#ff9f9f 76q,#ffa7a7 79q,#ffd8d8 83q,#ffe1e1 84q,#ffe7e7 85q,#ffe9e9 86q,#ffe6e6 87q,#fdd 88q,#ffd0d0 89q,#ffa6a6 91q,#ff7e7e 94q,#ff5f5f 98q,#ff5050 104q,#ff9494 137q,#ffc1c1 168q,#fdd 202q,#ffecec 234q,#fff3f3 263q"></i><i style="--g:#fff 0,#ffb4b4 1q,#f88 2q,#ff6262 4q,#ff4848 8q,#ff5050 10q,#ff6060 11q,#ff8e8e 12q,#a2a2ff 13q,#5353ff 14q,#1b1bff 16q,#00f 19q,#0606ff 55q,#22f 64q,#55f 70q,#b5b5ff 77q,#bbf 78q,#b7b7ff 80q,#a1a1ff 83q,#99f 85q,#99f 87q,#a4a4ff 89q,#c8c8ff 91q,#e2e2ff 92q,#fff 93q,#ff9e9e 96q,#ff8181 98q,#ff6f6f 100q,#ff5c5c 106q,#ff6363 113q,#ff9d9d 139q,#ffc6c6 167q,#ffdbdb 196q,#ffecec 235q,#fff3f3 263q"></i><i style="--g:#fff 0,#ffafaf 1q,#ff8484 2q,#ff5252 5q,#ff4040 8q,#f44 10q,#ff6363 12q,#ffacac 13q,#7d7dff 14q,#44f 15q,#2929ff 16q,#0d0dff 18q,#00f 21q,#0a0aff 61q,#22f 67q,#6f6fff 78q,#6e6eff 88q,#8080ff 92q,#9797ff 94q,#afafff 95q,#f7f7ff 97q,#ffe3e3 98q,#ffa0a0 100q,#ff7e7e 103q,#ff6c6c 109q,#fbb 150q,#ffd1d1 169q,#ffd8d8 179q,#ffeded 234q,#fff4f4 263q"></i><i style="--g:#fff 0,#ffaeae 1q,#ff8383 2q,#ff5050 5q,#ff3a3a 10q,#ff4c4c 12q,#ff6969 13q,#ffe0e0 14q,#6d6dff 15q,#4141ff 16q,#1b1bff 18q,#0909ff 21q,#00f 57q,#1414ff 66q,#55f 79q,#5f5fff 92q,#88f 97q,#9797ff 98q,#b2b2ff 99q,#f9f9ff 101q,#ffe4e4 102q,#ffadad 104q,#ff9d9d 105q,#ff8d8d 107q,#ff8181 112q,#ff8c8c 121q,#fbb 141q,#ffc7c7 149q,#ffe2e2 180q,#ffebeb 211q,#fff5f5 263q"></i><i style="--g:#fff 0,#ffb0b0 1q,#ff8585 2q,#ff6e6e 3q,#ff4040 7q,#f33 10q,#ff3e3e 12q,#ff4d4d 13q,#ff6d6d 14q,#ffeded 15q,#7070ff 16q,#4747ff 17q,#2525ff 19q,#1616ff 22q,#1717ff 40q,#00f 59q,#11f 67q,#44f 79q,#5252ff 94q,#6a6aff 98q,#8c8cff 101q,#9d9dff 102q,#f3f3ff 105q,#fff3f3 106q,#ffdede 107q,#ffbebe 109q,#ffa4a4 112q,#ff9e9e 116q,#ffa5a5 123q,#fcc 140q,#ffd6d6 148q,#ffebeb 182q,#fff1f1 210q,#fff7f7 263q"></i><i style="--g:#fff 0,#ffb6b6 1q,#ff8a8a 2q,#f55 5q,#ff3b3b 8q,#f33 11q,#ff3c3c 13q,#f66 15q,#ffaeae 16q,#9696ff 17q,#6161ff 18q,#3b3bff 20q,#2e2eff 22q,#22f 41q,#0505ff 61q,#3b3bff 80q,#4a4aff 96q,#66f 101q,#8484ff 104q,#9e9eff 106q,#ddf 109q,#eef 110q,#fcfcff 111q,#fff6f6 112q,#ffeded 113q,#ffe0e0 115q,#ffd5d5 118q,#ffd2d2 122q,#ffe8e8 148q,#fff5f5 187q,#fff8f8 213q,#fffafa 263q"></i><i style="--g:#fff 0,#ffc0c0 1q,#ff9292 2q,#ff5c5c 5q,#ff4040 8q,#ff3030 12q,#ff3737 14q,#ff5252 16q,#ff6d6d 17q,#ffa4a4 18q,#d7d7ff 19q,#88f 20q,#5e5eff 22q,#4848ff 26q,#3838ff 41q,#0808ff 63q,#3636ff 81q,#3f3fff 96q,#5f5fff 103q,#a3a3ff 111q,#ccf 114q,#ddf 116q,#efefff 119q,#f9f9ff 122q,#fff 125q,#fffafa 133q,#fff9f9 164q,#fffefe 211q,#fffdfd 263q"></i><i style="--g:#fff 0,#ff9f9f 2q,#f88 3q,#f66 5q,#ff2d2d 12q,#ff2d2d 15q,#f44 18q,#f66 20q,#ff9393 22q,#fff2f2 24q,#e3e3ff 25q,#a5a5ff 27q,#8e8eff 29q,#7c7cff 32q,#1d1dff 56q,#0d0dff 64q,#33f 81q,#33f 94q,#44f 101q,#bfbfff 121q,#d0d0ff 125q,#ddf 130q,#e4e4ff 135q,#f3f3ff 156q,#f9f9ff 169q,#fefeff 263q"></i><i style="--g:#fff 0,#ff9b9b 3q,#f55 8q,#ff2e2e 12q,#f22 15q,#ff3030 20q,#ff7c7c 31q,#ffabab 36q,#fff7f7 40q,#f2f2ff 41q,#a7a7ff 44q,#9696ff 45q,#7070ff 48q,#44f 53q,#22f 59q,#11f 66q,#33f 82q,#3e3eff 101q,#9393ff 120q,#bdbdff 132q,#d6d6ff 146q,#e9e9ff 164q,#f1f1ff 178q,#f6f6ff 201q,#fbfbff 263q"></i><i style="--g:#fff 0,#ffdbdb 2q,#ff9797 5q,#ff3d3d 11q,#ff1f1f 14q,#f11 17q,#f66 42q,#ff7a7a 45q,#ff9292 47q,#ffa8a8 48q,#fbfbff 50q,#99f 52q,#6d6dff 54q,#4848ff 57q,#2828ff 62q,#1c1cff 68q,#3939ff 83q,#3d3dff 102q,#8a8aff 123q,#b4b4ff 140q,#d5d5ff 159q,#e4e4ff 174q,#ececff 187q,#f3f3ff 211q,#f8f8ff 263q"></i><i style="--g:#fff 0,#fff 2q,#fffbfb 3q,#fff2f2 4q,#ffe3e3 5q,#ffcaca 6q,#ffa5a5 7q,#ff5c5c 10q,#ff1d1d 14q,#ff0707 19q,#ff4848 46q,#ff5e5e 50q,#ff7575 52q,#f88 53q,#ffa9a9 54q,#ffeded 55q,#c8c8ff 56q,#8f8fff 57q,#7575ff 58q,#4a4aff 61q,#3030ff 65q,#2828ff 69q,#4040ff 84q,#3636ff 96q,#3d3dff 103q,#9393ff 132q,#bfbfff 155q,#d1d1ff 167q,#e0e0ff 182q,#e9e9ff 195q,#f0f0ff 219q,#f6f6ff 263q"></i><i style="--g:#fff 0,#dcdcff 2q,#c6c6ff 4q,#c5c5ff 5q,#ceceff 6q,#e5e5ff 7q,#fee 8q,#faa 9q,#ff7b7b 10q,#ff2f2f 13q,#f11 15q,red 18q,#ff3838 50q,#ff4f4f 54q,#ff7979 57q,#ff9696 58q,#ffdbdb 59q,#d1d1ff 60q,#9191ff 61q,#7575ff 62q,#4d4dff 65q,#3636ff 71q,#4c4cff 85q,#3b3bff 100q,#8d8dff 133q,#c8c8ff 168q,#dbdbff 186q,#e5e5ff 200q,#efefff 225q,#f5f5ff 263q"></i><i style="--g:#fff 0,#bbf 2q,#a0a0ff 3q,#8b8bff 5q,#8c8cff 7q,#99f 8q,#cbcbff 9q,#ffd4d4 10q,#ff7c7c 11q,#f55 12q,#f22 14q,red 18q,#ff2626 51q,#ff3b3b 56q,#f55 59q,#ff7b7b 61q,#ff9c9c 62q,#ffe7e7 63q,#c8c8ff 64q,#9090ff 65q,#77f 66q,#5e5eff 68q,#4b4bff 73q,#5c5cff 85q,#44f 98q,#44f 105q,#8d8dff 135q,#c5c5ff 171q,#dbdbff 192q,#e5e5ff 207q,#eef 231q,#f4f4ff 263q"></i><i style="--g:#fff 0,#a0a0ff 2q,#7c7cff 4q,#6b6bff 7q,#7c7cff 9q,#9f9fff 10q,#fdd 11q,#ff7171 12q,#ff2b2b 14q,#ff0a0a 16q,red 18q,#ff1c1c 53q,#f33 59q,#ff5c5c 63q,#ff8383 65q,#ffa8a8 66q,#ffeded 67q,#d2d2ff 68q,#9f9fff 69q,#88f 70q,#7373ff 72q,#6b6bff 74q,#77f 86q,#4a4aff 102q,#5353ff 110q,#9090ff 137q,#c1c1ff 170q,#e1e1ff 206q,#ededff 232q,#f3f3ff 263q"></i><i style="--g:#fff 0,#c1c1ff 1q,#9393ff 2q,#6e6eff 4q,#5d5dff 6q,#5959ff 8q,#6d6dff 10q,#9797ff 11q,#ffbaba 12q,#ff5d5d 13q,#f22 15q,red 18q,#ff1717 56q,#ff3838 63q,#ff6363 67q,#f88 69q,#ffa1a1 70q,#ffcfcf 71q,#fff8f8 72q,#e5e5ff 73q,#ccf 74q,#babaff 75q,#aeaeff 76q,#a7a7ff 78q,#bebeff 84q,#bcbcff 86q,#7171ff 95q,#5e5eff 99q,#55f 104q,#5d5dff 112q,#9494ff 138q,#c2c2ff 169q,#dedeff 204q,#ececff 234q,#f3f3ff 263q"></i><i style="--g:#fff 0,#b8b8ff 1q,#8b8bff 2q,#7575ff 3q,#5a5aff 5q,#4d4dff 9q,#6969ff 11q,#a6a6ff 12q,#ff8a8a 13q,#ff4b4b 14q,#ff2c2c 15q,#ff0a0a 17q,red 19q,#ff0d0d 55q,#f33 65q,#ff5b5b 70q,#ffb5b5 78q,#ffbcbc 80q,#ffbaba 85q,#ffc2c2 87q,#ffd7d7 89q,#fff8f8 91q,#f0f0ff 92q,#a5a5ff 95q,#7979ff 99q,#6262ff 106q,#66f 113q,#99f 138q,#c5c5ff 167q,#dcdcff 198q,#ececff 233q,#f3f3ff 263q"></i><i style="--g:#fff 0,#b2b2ff 1q,#8686ff 2q,#6060ff 4q,#4c4cff 6q,#44f 9q,#5252ff 11q,#6d6dff 12q,#e0e0ff 13q,#ff6d6d 14q,#ff3e3e 15q,#f22 16q,red 20q,#f11 61q,#ff6f6f 78q,#ff7d7d 88q,#ff9595 92q,#ffa1a1 93q,#ffb7b7 94q,#ffefef 96q,#f2f2ff 97q,#a2a2ff 100q,#7e7eff 104q,#7272ff 110q,#c4c4ff 158q,#d9d9ff 183q,#ececff 230q,#f4f4ff 263q"></i><i style="--g:#fff 0,#b0b0ff 1q,#8585ff 2q,#6e6eff 3q,#4949ff 6q,#3c3cff 9q,#5252ff 12q,#77f 13q,#ffdede 14q,#ff5e5e 15q,#ff3939 16q,#f22 17q,#ff0e0e 19q,#ff0303 23q,#f11 62q,#f55 78q,#f66 91q,#f88 96q,#ffa7a7 98q,#fffdfd 101q,#cfcfff 103q,#a7a7ff 105q,#9191ff 108q,#88f 113q,#9393ff 123q,#bbf 142q,#cacaff 152q,#e1e1ff 181q,#ececff 217q,#f5f5ff 263q"></i><i style="--g:#fff 0,#b1b1ff 1q,#8686ff 2q,#6f6fff 3q,#4949ff 6q,#3737ff 10q,#44f 12q,#55f 13q,#7f7fff 14q,#ffc1c1 15q,#ff5d5d 16q,#ff3c3c 17q,#ff1f1f 19q,#f11 23q,#ff0808 57q,#ff1515 66q,#f44 79q,#ff5c5c 94q,#ff7474 98q,#ff9494 101q,#ffa3a3 102q,#ffecec 105q,#fdfdff 106q,#ebebff 107q,#cfcfff 109q,#b4b4ff 112q,#a5a5ff 117q,#aaf 122q,#cdcdff 141q,#d7d7ff 150q,#eaeaff 182q,#f0f0ff 211q,#f7f7ff 263q"></i><i style="--g:#fff 0,#b7b7ff 1q,#8a8aff 2q,#55f 5q,#33f 10q,#44f 13q,#55f 14q,#7b7bff 15q,#ffeded 16q,#ff7070 17q,#ff4e4e 18q,#ff3030 20q,#f22 23q,#ff0a0a 59q,#ff1414 67q,#ff3d3d 80q,#ff4f4f 95q,#f66 100q,#f88 104q,#ff9f9f 106q,#ffe4e4 110q,#fffcfc 112q,#f9f9ff 113q,#e5e5ff 116q,#dcdcff 119q,#d7d7ff 124q,#e8e8ff 150q,#f4f4ff 187q,#fafaff 263q"></i><i style="--g:#fff 0,#bfbfff 1q,#9191ff 2q,#5c5cff 5q,#3a3aff 9q,#33f 12q,#4c4cff 15q,#66f 16q,#9595ff 17q,#ffdada 18q,#ff7f7f 19q,#ff6262 20q,#ff5353 21q,#ff3a3a 26q,#ff0e0e 62q,#ff3838 81q,#f44 95q,#f66 103q,#ffa1a1 111q,#ffcfcf 115q,#ffdede 117q,#fee 120q,#fff7f7 123q,#fff 127q,#fafaff 136q,#f9f9ff 161q,#fdfdff 206q,#fdfdff 263q"></i><i style="--g:#fff 0,#9d9dff 2q,#7474ff 4q,#5050ff 7q,#2f2fff 13q,#3d3dff 16q,#5959ff 18q,#9090ff 20q,#d3d3ff 21q,#ffe4e4 22q,#faa 23q,#ff8f8f 24q,#ff8181 25q,#ff6464 30q,#f11 64q,#ff3737 82q,#ff3f3f 96q,#ff5151 102q,#ffc3c3 122q,#ffd3d3 126q,#ffdfdf 131q,#ffe6e6 136q,#fff1f1 150q,#fff9f9 166q,#fffbfb 180q,#fff 263q"></i><i style="--g:#fff 0,#b3b3ff 2q,#9696ff 3q,#5d5dff 7q,#2727ff 14q,#2b2bff 17q,#4848ff 21q,#a3a3ff 29q,#d1d1ff 31q,#fafaff 33q,#fff2f2 34q,#ffa9a9 38q,#f88 41q,#ff5757 48q,#ff2a2a 57q,#ff1a1a 65q,#ff3737 82q,#f44 101q,#ffc0c0 132q,#ffdada 146q,#ffeaea 163q,#fff1f1 177q,#fff6f6 202q,#fffbfb 263q"></i><i style="--g:#fff 0,#d3d3ff 2q,#a0a0ff 4q,#3e3eff 11q,#22f 14q,#1a1aff 17q,#7373ff 38q,#88f 41q,#a1a1ff 43q,#d7d7ff 45q,#f6f6ff 46q,#ffe5e5 47q,#ff9d9d 49q,#ff7a7a 51q,#ff5050 55q,#f33 60q,#f22 67q,#ff3b3b 83q,#f44 102q,#ff8e8e 124q,#ffb9b9 140q,#ffd5d5 157q,#ffe4e4 172q,#ffecec 186q,#fff3f3 212q,#fff9f9 263q"></i><i style="--g:#fff 0,#f5f5ff 2q,#ececff 3q,#dfdfff 4q,#ccf 5q,#9696ff 7q,#6c6cff 9q,#2c2cff 13q,#0d0dff 18q,#55f 44q,#7171ff 48q,#8a8aff 50q,#9f9fff 51q,#cbcbff 52q,#fff 53q,#ffc9c9 54q,#f99 55q,#ff6f6f 57q,#ff5757 59q,#ff3c3c 63q,#ff2e2e 69q,#ff4242 84q,#f44 103q,#ff8a8a 127q,#ffb8b8 148q,#ffd2d2 165q,#ffe1e1 180q,#ffe9e9 193q,#fff1f1 220q,#fff7f7 263q"></i><i style="--g:#fff 0,#ffe8e8 2q,#ffe0e0 3q,#fdd 4q,#ffe0e0 5q,#ffecec 6q,#f8f8ff 7q,#ccf 8q,#9696ff 9q,#5959ff 11q,#33f 13q,#0e0eff 16q,#0404ff 19q,#44f 48q,#5a5aff 52q,#7e7eff 55q,#9595ff 56q,#c4c4ff 57q,#fffbfb 58q,#fbb 59q,#ff9090 60q,#ff6a6a 62q,#f55 64q,#ff3d3d 72q,#ff4c4c 84q,#ff4747 104q,#ff8a8a 130q,#ffb7b7 154q,#ffd1d1 172q,#ffe6e6 199q,#ffefef 225q,#fff5f5 263q"></i><i style="--g:#fff 0,#ffc8c8 2q,#ffb0b0 3q,#ffa0a0 4q,#f99 5q,#ff9e9e 7q,#ffb9b9 8q,#fff2f2 9q,#b1b1ff 10q,#7575ff 11q,#5252ff 12q,#2626ff 14q,#0c0cff 16q,#00f 19q,#33f 50q,#4949ff 55q,#66f 58q,#88f 60q,#acacff 61q,#ececff 62q,#ffd4d4 63q,#ff9e9e 64q,#ff8585 65q,#ff6a6a 67q,#ff5858 70q,#ff5151 74q,#ff5b5b 85q,#ff4949 98q,#ff4c4c 105q,#ff9090 135q,#ffc8c8 170q,#ffdbdb 189q,#ffe5e5 204q,#ffeeee 230q,#fff4f4 263q"></i><i style="--g:#fff 0,#ffabab 2q,#ff9393 3q,#ff7c7c 5q,#ff7c7c 8q,#ff8c8c 9q,#ffc5c5 10q,#babaff 11q,#6b6bff 12q,#2d2dff 14q,#00f 18q,#2c2cff 54q,#4e4eff 60q,#7272ff 63q,#a2a2ff 65q,#d9d9ff 66q,#fff1f1 67q,#ffc2c2 68q,#ff9d9d 69q,#ff8c8c 70q,#ff7272 74q,#ff7373 86q,#ff5151 103q,#ff9292 137q,#ffc6c6 170q,#ffe2e2 203q,#ffeded 231q,#fff4f4 263q"></i><i style="--g:#fff 0,#ffc8c8 1q,#ff9b9b 2q,#ff8484 3q,#f66 6q,#ff6969 9q,#ff7b7b 10q,#ffb8b8 11q,#9d9dff 12q,#5a5aff 13q,#3838ff 14q,#11f 16q,#00f 18q,#22f 56q,#4848ff 63q,#7272ff 67q,#9696ff 69q,#b5b5ff 70q,#dbdbff 71q,#fbfbff 72q,#ffe9e9 73q,#ffd3d3 74q,#ffb8b8 76q,#ffa9a9 79q,#ffa2a2 86q,#ff6e6e 96q,#ff5c5c 104q,#ffc6c6 169q,#ffe0e0 202q,#ffeded 232q,#fff3f3 263q"></i><i style="--g:#fff 0,#ffbfbf 1q,#ff9191 2q,#ff6c6c 4q,#ff5353 8q,#ff5f5f 10q,#f77 11q,#ffd3d3 12q,#7e7eff 13q,#4949ff 14q,#2c2cff 15q,#0c0cff 17q,#00f 19q,#1818ff 55q,#44f 66q,#7979ff 72q,#c6c6ff 79q,#e3e3ff 86q,#f3f3ff 88q,#fff 89q,#fff3f3 90q,#ff9e9e 95q,#ff7979 100q,#ff6a6a 107q,#ffc8c8 166q,#ffdede 197q,#ffeded 231q,#fff4f4 263q"></i><i style="--g:#fff 0,#ffb9b9 1q,#ff8c8c 2q,#f66 4q,#ff4949 8q,#ff5b5b 11q,#ff7b7b 12q,#efefff 13q,#66f 14q,#3c3cff 15q,#22f 16q,#0b0bff 18q,#00f 21q,#22f 62q,#77f 78q,#8c8cff 87q,#a4a4ff 91q,#efefff 95q,#fffafa 96q,#ffa6a6 100q,#f88 104q,#ff7b7b 110q,#ff8383 119q,#ffb9b9 148q,#ffcaca 161q,#ffdede 188q,#ffeded 228q,#fff4f4 263q"></i><i style="--g:#fff 0,#ffb6b6 1q,#ff8a8a 2q,#ff7373 3q,#ff5757 5q,#f44 9q,#ff4b4b 11q,#ff5d5d 12q,#ff8a8a 13q,#aaf 14q,#5757ff 15q,#3636ff 16q,#0e0eff 19q,#0404ff 23q,#1a1aff 62q,#5a5aff 78q,#77f 91q,#9090ff 95q,#aaf 97q,#ececff 100q,#fffdfd 101q,#ffd6d6 103q,#ffb7b7 105q,#ff9c9c 108q,#ff9191 114q,#ff9c9c 125q,#ffc0c0 143q,#ffcfcf 155q,#ffe3e3 183q,#ffefef 223q,#fff6f6 263q"></i><i style="--g:#fff 0,#ffb7b7 1q,#ff8a8a 2q,#f55 5q,#ff3e3e 10q,#ff4b4b 12q,#ff6161 13q,#ff9c9c 14q,#9292ff 15q,#55f 16q,#3838ff 17q,#1717ff 20q,#11f 24q,#1818ff 63q,#4c4cff 79q,#6262ff 92q,#8181ff 98q,#9f9fff 101q,#ebebff 105q,#fbfbff 106q,#fff4f4 107q,#ffd3d3 110q,#fbb 114q,#ffb3b3 119q,#ffd2d2 143q,#ffdbdb 153q,#ffebeb 183q,#fff2f2 216q,#fff8f8 263q"></i><i style="--g:#fff 0,#fbb 1q,#ff8e8e 2q,#ff5a5a 5q,#ff3b3b 10q,#ff4040 12q,#ff6363 14q,#ff9d9d 15q,#9e9eff 16q,#5f5fff 17q,#33f 19q,#2626ff 21q,#11f 58q,#5858ff 94q,#88f 103q,#a4a4ff 106q,#d3d3ff 109q,#ebebff 111q,#fdfdff 113q,#fffafa 114q,#ffefef 116q,#ffe7e7 118q,#ffe1e1 121q,#fdd 126q,#ffebeb 158q,#fff4f4 188q,#fffafa 263q"></i><i style="--g:#fff 0,#ffc3c3 1q,#ff9494 2q,#ff7d7d 3q,#ff5f5f 5q,#ff3b3b 10q,#ff3a3a 12q,#ff4949 14q,#ff5c5c 15q,#ff8181 16q,#fff8f8 17q,#88f 18q,#6464ff 19q,#44f 21q,#3737ff 24q,#1717ff 60q,#4d4dff 94q,#6969ff 102q,#a4a4ff 111q,#c5c5ff 114q,#dcdcff 117q,#efefff 121q,#f9f9ff 125q,#fff 129q,#fffafa 137q,#fff9f9 154q,#fffcfc 204q,#fffdfd 263q"></i><i style="--g:#fff 0,#ff9f9f 2q,#f88 3q,#ff6868 5q,#ff4a4a 8q,#ff3636 12q,#ff4141 15q,#ff5e5e 17q,#f77 18q,#ffa8a8 19q,#f5f5ff 20q,#a4a4ff 21q,#8585ff 22q,#7575ff 23q,#5858ff 28q,#1c1cff 63q,#5b5bff 102q,#a1a1ff 116q,#c6c6ff 122q,#d5d5ff 126q,#e1e1ff 131q,#e9e9ff 136q,#f3f3ff 148q,#f9f9ff 163q,#fcfcff 182q,#fff 263q"></i><i style="--g:#fff 0,#ffb3b3 2q,#ff9797 3q,#ff5f5f 7q,#f33 13q,#f33 16q,#ff4a4a 19q,#ff9494 24q,#fff2f2 27q,#f2f2ff 28q,#dadaff 29q,#a2a2ff 32q,#8484ff 36q,#5e5eff 44q,#33f 55q,#22f 65q,#5353ff 102q,#c6c6ff 132q,#ddf 145q,#ebebff 160q,#f2f2ff 174q,#f7f7ff 204q,#fcfcff 263q"></i><i style="--g:#fff 0,#ff9d9d 4q,#ff4d4d 10q,#f22 16q,#ff2f2f 20q,#ff7070 31q,#ffa0a0 37q,#ffefef 41q,#f8f8ff 42q,#99f 46q,#77f 49q,#5757ff 53q,#3a3aff 59q,#2c2cff 67q,#5050ff 103q,#bfbfff 139q,#d8d8ff 154q,#e5e5ff 169q,#ededff 183q,#f4f4ff 213q,#fafaff 263q"></i><i style="--g:#fff 0,#ffeded 2q,#ffe1e1 3q,#ffd1d1 4q,#ffa2a2 6q,#ff5b5b 10q,#ff2828 14q,#ff1818 18q,#f66 41q,#ff8181 45q,#f99 47q,#ffaeae 48q,#fff2f2 50q,#e6e6ff 51q,#9c9cff 53q,#7a7aff 55q,#5c5cff 58q,#4242ff 63q,#3838ff 69q,#5151ff 104q,#bbf 145q,#d4d4ff 161q,#e2e2ff 176q,#eaeaff 190q,#f2f2ff 220q,#f8f8ff 263q"></i><i style="--g:#fff 0,#f3f3ff 2q,#f1f1ff 3q,#f2f2ff 4q,#f8f8ff 5q,#fff7f7 6q,#fdd 7q,#ff8e8e 9q,#ff5b5b 11q,#ff3636 13q,#ff1616 16q,#ff0d0d 19q,#ff5353 46q,#ff6a6a 50q,#ff8c8c 53q,#ffa0a0 54q,#fff7f7 56q,#d9d9ff 57q,#aaf 58q,#8f8fff 59q,#6060ff 63q,#4646ff 71q,#55f 105q,#babaff 150q,#d2d2ff 167q,#e7e7ff 195q,#f1f1ff 224q,#f6f6ff 263q"></i><i style="--g:#fff 0,#d7d7ff 2q,#c6c6ff 3q,#b2b2ff 5q,#b3b3ff 6q,#c1c1ff 7q,#dfdfff 8q,#ffeaea 9q,#ff9e9e 10q,#ff7373 11q,#ff2c2c 14q,#ff0d0d 17q,#ff0606 20q,#ff4a4a 51q,#ff6363 55q,#f88 58q,#ff9f9f 59q,#fffafa 61q,#d6d6ff 62q,#aaf 63q,#9191ff 64q,#77f 66q,#6464ff 69q,#5a5aff 74q,#5858ff 106q,#b7b7ff 152q,#ccf 166q,#ddf 184q,#e6e6ff 200q,#f0f0ff 228q,#f5f5ff 263q"></i><i style="--g:#fff 0,#bdbdff 2q,#a1a1ff 3q,#8b8bff 5q,#88f 7q,#8e8eff 8q,#a4a4ff 9q,#ededff 10q,#ffa2a2 11q,#ff6b6b 12q,#ff4a4a 13q,#f22 15q,#ff0606 18q,red 21q,#ff3b3b 53q,#ff5d5d 59q,#ff7f7f 62q,#ffacac 64q,#fff 66q,#d9d9ff 67q,#b7b7ff 68q,#9e9eff 69q,#88f 71q,#7a7aff 74q,#7575ff 86q,#5c5cff 101q,#66f 111q,#b7b7ff 153q,#cacaff 167q,#e3e3ff 199q,#efefff 229q,#f5f5ff 263q"></i><i style="--g:#fff 0,#a7a7ff 2q,#8181ff 4q,#7171ff 6q,#7070ff 8q,#77f 9q,#8e8eff 10q,#e3e3ff 11q,#ff9292 12q,#ff5c5c 13q,#ff3c3c 14q,#ff0e0e 17q,red 21q,#ff3939 57q,#ff5b5b 63q,#f88 67q,#ffb1b1 69q,#ffecec 71q,#fafaff 72q,#e6e6ff 73q,#d5d5ff 74q,#bdbdff 76q,#aaf 79q,#9c9cff 86q,#7272ff 97q,#66f 105q,#7272ff 115q,#bbf 154q,#cacaff 166q,#e2e2ff 198q,#efefff 230q,#f5f5ff 263q"></i><i style="--g:#fff 0,#cacaff 1q,#9c9cff 2q,#77f 4q,#6060ff 7q,#6262ff 9q,#6d6dff 10q,#88f 11q,#fcfcff 12q,#ff7a7a 13q,#ff4c4c 14q,#ff1e1e 16q,#ff0a0a 18q,red 22q,#ff2929 56q,#ff5b5b 67q,#ff9c9c 74q,#ffd0d0 78q,#ffdfdf 80q,#fff 86q,#e6e6ff 89q,#9f9fff 95q,#8282ff 100q,#7575ff 107q,#7e7eff 117q,#bbf 151q,#ccf 164q,#e2e2ff 195q,#efefff 229q,#f5f5ff 263q"></i><i style="--g:#fff 0,#c4c4ff 1q,#9696ff 2q,#7070ff 4q,#55f 8q,#5a5aff 10q,#6a6aff 11q,#9191ff 12q,#ffc9c9 13q,#ff6464 14q,#ff3f3f 15q,#ff1a1a 17q,#ff0404 22q,#ff2d2d 61q,#ff8181 78q,#ffa3a3 87q,#ffcbcb 91q,#fff4f4 94q,#fbfbff 95q,#a4a4ff 101q,#8f8fff 105q,#8686ff 111q,#9191ff 122q,#bfbfff 147q,#cfcfff 160q,#e3e3ff 189q,#efefff 226q,#f6f6ff 263q"></i><i style="--g:#fff 0,#c1c1ff 1q,#9393ff 2q,#7c7cff 3q,#5858ff 6q,#4f4fff 10q,#6d6dff 12q,#aaf 13q,#ff9494 14q,#f55 15q,#ff3838 16q,#f11 19q,#ff0a0a 23q,#ff2828 62q,#f66 78q,#ff8585 90q,#ff9c9c 94q,#ffa6a6 95q,#fff7f7 100q,#f8f8ff 101q,#ddf 103q,#bbf 106q,#a6a6ff 109q,#9d9dff 115q,#a5a5ff 125q,#c5c5ff 142q,#d5d5ff 156q,#e6e6ff 185q,#f1f1ff 223q,#f7f7ff 263q"></i><i style="--g:#fff 0,#c1c1ff 1q,#9393ff 2q,#6c6cff 4q,#4a4aff 8q,#4848ff 10q,#5959ff 12q,#7373ff 13q,#d7d7ff 14q,#ff8181 15q,#ff5151 16q,#ff3939 17q,#ff1a1a 20q,#f11 24q,#ff2626 63q,#f55 79q,#ff6f6f 91q,#ff8b8b 97q,#ffa3a3 100q,#ffe0e0 104q,#fffafa 106q,#f9f9ff 107q,#e7e7ff 109q,#d9d9ff 111q,#c8c8ff 115q,#c1c1ff 120q,#e1e1ff 158q,#ededff 186q,#f4f4ff 221q,#f9f9ff 263q"></i><i style="--g:#fff 0,#c4c4ff 1q,#9696ff 2q,#6e6eff 4q,#5858ff 6q,#44f 11q,#5b5bff 13q,#77f 14q,#e5e5ff 15q,#ff8484 16q,#ff5858 17q,#f33 19q,#f22 23q,#ff1f1f 56q,#ff2828 65q,#f66 94q,#ff9595 103q,#ffa6a6 105q,#ffd7d7 109q,#ffeaea 111q,#fff 114q,#f6f6ff 116q,#ececff 119q,#e6e6ff 123q,#e3e3ff 128q,#f0f0ff 168q,#f5f5ff 190q,#fbfbff 263q"></i><i style="--g:#fff 0,#cacaff 1q,#9c9cff 2q,#8484ff 3q,#66f 5q,#4d4dff 8q,#44f 11q,#4c4cff 13q,#7474ff 15q,#bbf 16q,#ffadad 17q,#ff7171 18q,#ff5959 19q,#f44 21q,#f33 26q,#f22 59q,#ff5c5c 94q,#f77 102q,#ff9f9f 109q,#ffcbcb 114q,#ffdede 117q,#ffefef 121q,#fff8f8 125q,#fff 129q,#fff 131q,#fdfdff 132q,#fafaff 138q,#f9f9ff 151q,#fdfdff 263q"></i><i style="--g:#fff 0,#a5a5ff 2q,#8d8dff 3q,#6f6fff 5q,#5252ff 8q,#4141ff 12q,#5252ff 15q,#7e7eff 17q,#bbf 18q,#ffdfdf 19q,#ff9595 20q,#ff7b7b 21q,#ff6c6c 22q,#ff5353 27q,#ff2929 61q,#f55 94q,#ff6969 102q,#ffa4a4 115q,#ffc9c9 121q,#ffd8d8 125q,#ffe4e4 130q,#ffebeb 135q,#fff4f4 146q,#fff9f9 159q,#fffcfc 176q,#fff 220q,#fff 263q"></i><i style="--g:#fff 0,#9b9bff 3q,#66f 7q,#44f 11q,#3d3dff 14q,#5858ff 18q,#8e8eff 21q,#b1b1ff 22q,#e0e0ff 23q,#fff6f6 24q,#ffd5d5 25q,#ffa3a3 27q,#ff8f8f 29q,#f77 34q,#ff3f3f 53q,#ff3030 64q,#ff6060 102q,#ffbdbd 126q,#fcc 131q,#ffe1e1 143q,#ffeded 157q,#fff3f3 171q,#fff9f9 205q,#fffdfd 263q"></i><i style="--g:#fff 0,#9f9fff 4q,#55f 10q,#3b3bff 13q,#33f 16q,#6161ff 24q,#a2a2ff 31q,#f9f9ff 36q,#fff4f4 37q,#ffa1a1 42q,#ff8686 45q,#ff6161 51q,#f44 58q,#ff3939 66q,#ff5e5e 103q,#ffc4c4 136q,#ffdbdb 150q,#ffe7e7 164q,#ffefef 179q,#fff6f6 213q,#fffbfb 263q"></i><i style="--g:#fff 0,#e8e8ff 2q,#cacaff 4q,#9f9fff 6q,#7f7fff 8q,#3c3cff 13q,#2727ff 17q,#7474ff 37q,#a3a3ff 43q,#fafaff 47q,#ffebeb 48q,#ff9f9f 51q,#ff8585 53q,#f66 57q,#ff4e4e 62q,#f44 69q,#ff5f5f 104q,#ffc0c0 141q,#ffd7d7 156q,#ffe3e3 170q,#ffebeb 185q,#fff4f4 218q,#fff9f9 263q"></i><i style="--g:#fff 0,#fffdfd 2q,#fff 3q,#fbfbff 4q,#f2f2ff 5q,#e3e3ff 6q,#cacaff 7q,#a6a6ff 8q,#7575ff 10q,#33f 14q,#1c1cff 19q,#6b6bff 45q,#88f 49q,#a2a2ff 51q,#fbfbff 54q,#ffe3e3 55q,#ffa3a3 57q,#ff8585 59q,#ff6c6c 62q,#f55 71q,#ff6363 106q,#ffc0c0 146q,#ffd6d6 162q,#ffe9e9 190q,#fff3f3 222q,#fff8f8 263q"></i><i style="--g:#fff 0,#ffe5e5 2q,#ffd3d3 4q,#ffd1d1 5q,#ffd6d6 6q,#ffe4e4 7q,#fff 8q,#d1d1ff 9q,#99f 10q,#5c5cff 12q,#3636ff 14q,#1919ff 17q,#11f 20q,#5b5bff 49q,#7272ff 53q,#9292ff 56q,#a4a4ff 57q,#e7e7ff 59q,#fff6f6 60q,#ffb6b6 62q,#ff9d9d 63q,#ff8585 65q,#ff7272 68q,#f66 72q,#ff6161 99q,#ff6e6e 111q,#ffc0c0 149q,#ffd0d0 161q,#ffdfdf 177q,#ffe7e7 192q,#fff1f1 224q,#fff7f7 263q"></i><i style="--g:#fff 0,#ffbaba 3q,#ffa7a7 4q,#ff9b9b 6q,#ff9d9d 7q,#faa 8q,#ffcfcf 9q,#f0f0ff 10q,#9b9bff 11q,#6f6fff 12q,#2b2bff 15q,#11f 20q,#4e4eff 52q,#6f6fff 58q,#9191ff 61q,#a2a2ff 62q,#fdfdff 65q,#fcc 67q,#ffa2a2 69q,#ff9191 71q,#ff8383 75q,#ff6a6a 101q,#ff7474 112q,#ffbcbc 148q,#ffd0d0 162q,#fdd 177q,#ffe6e6 193q,#fff1f1 226q,#fff7f7 263q"></i><i style="--g:#fff 0,#ffbdbd 2q,#ffa0a0 3q,#f88 5q,#ff8080 7q,#ff8e8e 9q,#ffafaf 10q,#f8f8ff 11q,#8f8fff 12q,#6161ff 13q,#3030ff 15q,#1919ff 17q,#0c0cff 21q,#44f 55q,#6363ff 61q,#88f 65q,#a2a2ff 67q,#e8e8ff 70q,#fcfcff 71q,#fff1f1 72q,#ffe3e3 73q,#ffc3c3 76q,#ffa7a7 82q,#ff8080 96q,#f77 104q,#ff7f7f 115q,#ffbebe 148q,#ffd0d0 162q,#ffe6e6 193q,#fff1f1 226q,#fff7f7 263q"></i><i style="--g:#fff 0,#ffaeae 2q,#ff9494 3q,#ff8585 4q,#ff7474 6q,#ff6f6f 8q,#ff8181 10q,#ffa6a6 11q,#e1e1ff 12q,#7a7aff 13q,#5252ff 14q,#2828ff 16q,#1515ff 18q,#0c0cff 22q,#3939ff 55q,#5252ff 62q,#6f6fff 67q,#a5a5ff 73q,#cfcfff 76q,#eaeaff 79q,#fcfcff 82q,#fffdfd 83q,#ffe7e7 87q,#ffd1d1 90q,#ffa5a5 95q,#ff8c8c 101q,#ff8383 108q,#ff8e8e 119q,#ffc0c0 146q,#ffd2d2 160q,#ffe6e6 191q,#fff1f1 226q,#fff7f7 263q"></i><i style="--g:#fff 0,#ffa4a4 2q,#ff8d8d 3q,#ff6b6b 6q,#ff6363 8q,#ff6c6c 10q,#ff7e7e 11q,#ffb8b8 12q,#afafff 13q,#66f 14q,#44f 15q,#1a1aff 18q,#11f 22q,#4040ff 61q,#a5a5ff 82q,#dedeff 90q,#fbfbff 93q,#fff9f9 94q,#ffb4b4 101q,#ffa1a1 104q,#ff9595 111q,#ff9f9f 123q,#ffc4c4 143q,#ffd6d6 158q,#ffe8e8 188q,#fff2f2 224q,#fff7f7 263q"></i><i style="--g:#fff 0,#ffa0a0 2q,#ff8a8a 3q,#ff6e6e 5q,#ff5b5b 9q,#ff6969 11q,#ff8282 12q,#ffe0e0 13q,#8c8cff 14q,#5a5aff 15q,#3f3fff 16q,#1c1cff 19q,#1414ff 23q,#3a3aff 62q,#a0a0ff 91q,#bcbcff 94q,#fff 100q,#ffebeb 102q,#ffd2d2 105q,#ffb8b8 110q,#ffafaf 116q,#ffd1d1 144q,#ffdcdc 156q,#ffebeb 186q,#fff4f4 223q,#fff8f8 263q"></i><i style="--g:#fff 0,#ffa0a0 2q,#f88 3q,#ff6d6d 5q,#f55 9q,#ff5d5d 11q,#ff6b6b 12q,#ff8d8d 13q,#f4f4ff 14q,#7b7bff 15q,#55f 16q,#33f 18q,#1d1dff 24q,#3737ff 63q,#8383ff 91q,#99f 96q,#a7a7ff 98q,#e9e9ff 104q,#fbfbff 106q,#fffbfb 107q,#fee 109q,#ffdfdf 112q,#ffd4d4 116q,#ffcfcf 122q,#ffe8e8 161q,#fff0f0 188q,#fff6f6 223q,#fffafa 263q"></i><i style="--g:#fff 0,#ffa2a2 2q,#ff8b8b 3q,#ff6e6e 5q,#ff5353 10q,#ff5d5d 12q,#ff6f6f 13q,#ff9898 14q,#dfdfff 15q,#7a7aff 16q,#5858ff 17q,#3a3aff 19q,#2929ff 25q,#33f 63q,#7575ff 92q,#8e8eff 99q,#a7a7ff 103q,#dfdfff 109q,#f3f3ff 112q,#fcfcff 114q,#fffefe 115q,#fff4f4 118q,#ffefef 121q,#ffebeb 125q,#ffe9e9 131q,#fff6f6 193q,#fffbfb 263q"></i><i style="--g:#fff 0,#ffa8a8 2q,#ff9090 3q,#ff7272 5q,#ff5959 8q,#ff5151 11q,#ff5e5e 13q,#ff7070 14q,#ff9595 15q,#f6f6ff 16q,#8d8dff 17q,#6969ff 18q,#55f 19q,#3b3bff 24q,#33f 57q,#6a6aff 92q,#8080ff 100q,#a1a1ff 107q,#c9c9ff 112q,#dfdfff 116q,#f1f1ff 121q,#f9f9ff 125q,#fff 130q,#fffbfb 138q,#fff9f9 151q,#fffdfd 263q"></i><i style="--g:#fff 0,#ffb4b4 2q,#f99 3q,#f66 7q,#ff5050 12q,#ff5b5b 14q,#ff8282 16q,#ffb9b9 17q,#e6e6ff 18q,#99f 19q,#7d7dff 20q,#6d6dff 21q,#55f 26q,#3939ff 60q,#66f 94q,#7a7aff 102q,#a3a3ff 112q,#ccf 119q,#dadaff 123q,#e6e6ff 128q,#ededff 133q,#f6f6ff 144q,#fafaff 156q,#fff 192q,#fff 263q"></i><i style="--g:#fff 0,#ffa5a5 3q,#ff7a7a 6q,#ff5252 11q,#ff4f4f 14q,#ff5b5b 16q,#f77 18q,#ff9090 19q,#ffbaba 20q,#fee 21q,#e3e3ff 22q,#bfbfff 23q,#a3a3ff 24q,#9595ff 25q,#8686ff 27q,#77f 31q,#4040ff 63q,#7272ff 102q,#d1d1ff 128q,#e5e5ff 140q,#efefff 152q,#f4f4ff 166q,#fbfbff 203q,#fdfdff 263q"></i><i style="--g:#fff 0,#ffa6a6 4q,#ff6969 9q,#ff5050 12q,#f44 15q,#ff5050 18q,#ff6868 21q,#ffa4a4 26q,#ffcfcf 28q,#fff1f1 30q,#fefeff 31q,#e3e3ff 33q,#a6a6ff 38q,#8c8cff 42q,#6868ff 50q,#5151ff 58q,#4949ff 66q,#7272ff 104q,#ccf 133q,#dfdfff 146q,#eaeaff 160q,#f1f1ff 174q,#f8f8ff 210q,#fcfcff 263q"></i><i style="--g:#fff 0,#ffdada 3q,#ff9494 7q,#f55 12q,#ff3a3a 17q,#ff7a7a 31q,#ffa2a2 37q,#fff8f8 43q,#f7f7ff 44q,#a3a3ff 49q,#88f 52q,#7070ff 56q,#5c5cff 62q,#55f 69q,#7272ff 105q,#c7c7ff 137q,#dcdcff 151q,#e7e7ff 165q,#eef 180q,#f6f6ff 216q,#fbfbff 263q"></i><i style="--g:#fff 0,#fffbfb 2q,#fff0f0 4q,#ffe7e7 5q,#ffd8d8 6q,#ffc3c3 7q,#ffa5a5 8q,#ff6b6b 11q,#f44 14q,#ff2e2e 18q,#ff7a7a 41q,#ffa4a4 47q,#ffefef 51q,#fbfbff 52q,#a6a6ff 56q,#9090ff 58q,#77f 62q,#6363ff 72q,#7474ff 106q,#c7c7ff 141q,#dbdbff 156q,#e5e5ff 170q,#ececff 184q,#f5f5ff 219q,#fafaff 263q"></i><i style="--g:#fff 0,#f1f1ff 2q,#e9e9ff 4q,#eaeaff 5q,#f0f0ff 6q,#fefeff 7q,#ffe9e9 8q,#ffc5c5 9q,#f99 10q,#f55 13q,#ff3030 16q,#ff2525 19q,#ff6f6f 47q,#ff8686 51q,#ffa4a4 54q,#fffcfc 58q,#ececff 59q,#c2c2ff 61q,#9f9fff 63q,#8080ff 68q,#7575ff 75q,#7272ff 99q,#7a7aff 108q,#c6c6ff 143q,#dbdbff 160q,#ebebff 188q,#f4f4ff 222q,#f9f9ff 263q"></i><i style="--g:#fff 0,#e0e0ff 2q,#d2d2ff 3q,#bfbfff 5q,#bdbdff 6q,#c3c3ff 7q,#d3d3ff 8q,#f2f2ff 9q,#ffdbdb 10q,#ff9b9b 11q,#f77 12q,#ff4949 14q,#ff2727 17q,#f22 20q,#f66 51q,#ff7f7f 56q,#ff9b9b 59q,#faa 60q,#fff 64q,#dadaff 66q,#bbf 68q,#a3a3ff 70q,#8f8fff 76q,#7b7bff 100q,#88f 114q,#c3c3ff 142q,#d5d5ff 156q,#e2e2ff 171q,#eaeaff 187q,#f3f3ff 222q,#f9f9ff 263q"></i><i style="--g:#fff 0,#d1d1ff 2q,#aaf 4q,#9e9eff 5q,#99f 7q,#9c9cff 8q,#aeaeff 9q,#dadaff 10q,#ffe0e0 11q,#ff9191 12q,#ff6b6b 13q,#f33 16q,#ff1d1d 21q,#ff5858 53q,#ff7272 59q,#ff8f8f 63q,#ffa5a5 65q,#ffdcdc 68q,#fffafa 70q,#f7f7ff 71q,#e2e2ff 73q,#ccf 76q,#bdbdff 79q,#a4a4ff 87q,#8d8dff 97q,#88f 104q,#9393ff 117q,#c5c5ff 142q,#d6d6ff 156q,#e2e2ff 171q,#eaeaff 187q,#f3f3ff 222q,#f8f8ff 263q"></i><i style="--g:#fff 0,#c5c5ff 2q,#aaf 3q,#99f 4q,#8484ff 7q,#8b8bff 9q,#9c9cff 10q,#d5d5ff 11q,#ffcdcd 12q,#ff8080 13q,#ff5d5d 14q,#ff3636 16q,#ff1c1c 21q,#ff5050 55q,#ff6a6a 62q,#f88 67q,#ffa0a0 70q,#ffdbdb 75q,#ffebeb 77q,#fffdfd 80q,#fcfcff 81q,#eaeaff 85q,#a4a4ff 98q,#9595ff 108q,#a2a2ff 121q,#c7c7ff 140q,#d8d8ff 155q,#eaeaff 186q,#f4f4ff 222q,#f9f9ff 263q"></i><i style="--g:#fff 0,#bcbcff 2q,#a0a0ff 3q,#8585ff 5q,#7979ff 7q,#7a7aff 9q,#8383ff 10q,#99f 11q,#e5e5ff 12q,#ffa5a5 13q,#ff6f6f 14q,#ff5151 15q,#f33 17q,#ff1e1e 22q,#ff4949 56q,#f77 69q,#fff 92q,#cacaff 100q,#b3b3ff 105q,#a8a8ff 112q,#d0d0ff 141q,#dcdcff 154q,#ececff 185q,#f5f5ff 221q,#f9f9ff 263q"></i><i style="--g:#fff 0,#b7b7ff 2q,#9b9bff 3q,#8080ff 5q,#6f6fff 8q,#7474ff 10q,#8080ff 11q,#a0a0ff 12q,#fff8f8 13q,#ff8c8c 14q,#ff6262 15q,#ff4a4a 16q,#ff3030 18q,#f22 22q,#ff4d4d 61q,#ffa4a4 86q,#ffd1d1 93q,#fffdfd 99q,#fafaff 100q,#e8e8ff 103q,#d9d9ff 106q,#cacaff 111q,#c5c5ff 117q,#e4e4ff 157q,#f0f0ff 186q,#f6f6ff 222q,#fafaff 263q"></i><i style="--g:#fff 0,#b6b6ff 2q,#99f 3q,#7575ff 6q,#6b6bff 10q,#8484ff 12q,#b6b6ff 13q,#ffd3d3 14q,#ff7d7d 15q,#ff5c5c 16q,#f33 19q,#ff2a2a 23q,#ff4b4b 62q,#ffa2a2 93q,#ffebeb 103q,#fffdfd 106q,#fcfcff 107q,#e8e8ff 112q,#dfdfff 117q,#dcdcff 123q,#ededff 163q,#f4f4ff 189q,#fbfbff 263q"></i><i style="--g:#fff 0,#b8b8ff 2q,#9b9bff 3q,#7f7fff 5q,#66f 9q,#7373ff 12q,#88f 13q,#cdcdff 14q,#ffbdbd 15q,#ff7a7a 16q,#ff5e5e 17q,#f44 19q,#f33 24q,#ff4a4a 63q,#ff9c9c 97q,#fdd 107q,#ffeded 110q,#fff9f9 113q,#fff 115q,#fafaff 117q,#f4f4ff 121q,#eeeeff 132q,#f8f8ff 196q,#fcfcff 263q"></i><i style="--g:#fff 0,#bdbdff 2q,#a0a0ff 3q,#8383ff 5q,#6464ff 10q,#7575ff 13q,#8d8dff 14q,#d1d1ff 15q,#ffc7c7 16q,#ff8585 17q,#ff6b6b 18q,#ff5252 20q,#f44 26q,#ff4a4a 63q,#ff8c8c 97q,#ffa2a2 103q,#ffcdcd 110q,#ffe0e0 114q,#ffefef 119q,#fff7f7 123q,#fff 129q,#fff 132q,#fcfcff 139q,#fafaff 152q,#fefeff 263q"></i><i style="--g:#fff 0,#a8a8ff 3q,#7f7fff 6q,#6363ff 11q,#7474ff 14q,#88f 15q,#b3b3ff 16q,#fffbfb 17q,#ffb0b0 18q,#ff8a8a 19q,#f77 20q,#f66 22q,#ff5b5b 26q,#ff4c4c 58q,#f55 69q,#ff8c8c 101q,#ffa6a6 108q,#ffcfcf 116q,#ffdcdc 120q,#ffe7e7 125q,#ffefef 130q,#fff7f7 140q,#fffbfb 152q,#fff 175q,#fff 263q"></i><i style="--g:#fff 0,#a1a1ff 4q,#7e7eff 7q,#6262ff 12q,#66f 14q,#77f 16q,#8b8bff 17q,#a9a9ff 18q,#dedeff 19q,#fff1f1 20q,#ffc9c9 21q,#faa 22q,#ff8f8f 24q,#ff7979 30q,#f55 62q,#f88 102q,#ffa3a3 111q,#ffc2c2 118q,#ffd5d5 124q,#ffe8e8 136q,#fff1f1 148q,#fff6f6 161q,#fffcfc 199q,#fffefe 263q"></i><i style="--g:#fff 0,#ddf 2q,#a3a3ff 5q,#77f 9q,#5c5cff 14q,#6d6dff 18q,#a2a2ff 22q,#d3d3ff 24q,#e7e7ff 25q,#f8f8ff 26q,#fff6f6 27q,#fdd 29q,#ffa7a7 35q,#ff7575 49q,#ff5d5d 65q,#ff8585 103q,#ffd0d0 128q,#ffe4e4 141q,#ffeded 154q,#fff3f3 168q,#fffafa 206q,#fffdfd 263q"></i><i style="--g:#fff 0,#dedeff 3q,#c2c2ff 5q,#9f9fff 7q,#66f 12q,#5151ff 16q,#66f 22q,#a8a8ff 31q,#d5d5ff 35q,#fdfdff 39q,#fff7f7 40q,#ffa4a4 48q,#ff7c7c 56q,#ff6868 68q,#f88 105q,#fcc 131q,#ffe0e0 145q,#ffebeb 159q,#fff1f1 174q,#fff8f8 211q,#fffcfc 263q"></i><i style="--g:#fff 0,#f8f8ff 2q,#ececff 4q,#d6d6ff 6q,#c6c6ff 7q,#99f 9q,#7a7aff 11q,#55f 14q,#44f 18q,#8383ff 35q,#a2a2ff 41q,#e6e6ff 47q,#fff 49q,#ffa5a5 56q,#ff8585 62q,#f77 72q,#f88 106q,#fcc 134q,#ffdfdf 149q,#ffe9e9 163q,#fff0f0 178q,#fff7f7 215q,#fffbfb 263q"></i><i style="--g:#fff 0,#fff7f7 3q,#fff8f8 4q,#fdfdff 6q,#f2f2ff 7q,#e0e0ff 8q,#c5c5ff 9q,#a2a2ff 10q,#8a8aff 11q,#55f 14q,#44f 16q,#3b3bff 19q,#7c7cff 42q,#9f9fff 49q,#fbfbff 56q,#fff5f5 57q,#faa 63q,#ff9191 68q,#f88 76q,#ff8686 98q,#ff8f8f 108q,#ffcece 137q,#ffe0e0 153q,#ffefef 181q,#fff7f7 217q,#fffbfb 263q"></i><i style="--g:#fff 0,#ffe5e5 3q,#ffdcdc 5q,#ffdcdc 6q,#ffe2e2 7q,#ffefef 8q,#f8f8ff 9q,#d4d4ff 10q,#a3a3ff 11q,#8484ff 12q,#4c4cff 15q,#33f 20q,#77f 48q,#a3a3ff 56q,#f6f6ff 62q,#fffbfb 63q,#ffd9d9 66q,#ffb1b1 71q,#ffa0a0 76q,#ff9090 100q,#ff9d9d 114q,#ffcaca 135q,#fdd 150q,#ffe7e7 165q,#fee 181q,#fff6f6 218q,#fffafa 263q"></i><i style="--g:#fff 0,#ffd5d5 3q,#ffc0c0 5q,#fbb 6q,#fbb 7q,#ffc3c3 8q,#ffd6d6 9q,#fff7f7 10q,#d6d6ff 11q,#99f 12q,#77f 13q,#5050ff 15q,#3b3bff 17q,#33f 20q,#6e6eff 51q,#8585ff 57q,#9f9fff 61q,#e7e7ff 67q,#fbfbff 69q,#fffafa 70q,#ffebeb 72q,#ffd5d5 76q,#ffa5a5 94q,#ff9c9c 103q,#ffa5a5 115q,#fcc 135q,#fdd 150q,#ffe7e7 165q,#fee 181q,#fff6f6 218q,#fffafa 263q"></i><i style="--g:#fff 0,#ffc7c7 3q,#faa 5q,#ffa1a1 6q,#ffa0a0 8q,#faa 9q,#ffc6c6 10q,#fff4f4 11q,#c8c8ff 12q,#8b8bff 13q,#6c6cff 14q,#4848ff 16q,#3030ff 21q,#66f 53q,#9191ff 64q,#a5a5ff 67q,#ceceff 71q,#dfdfff 73q,#f2f2ff 76q,#fcfcff 78q,#fffefe 79q,#ffc0c0 97q,#ffb3b3 102q,#ffaeae 108q,#ffb3b3 115q,#ffd5d5 138q,#ffe1e1 151q,#ffefef 182q,#fff7f7 219q,#fffafa 263q"></i><i style="--g:#fff 0,#faa 4q,#ff9595 6q,#ff9090 8q,#ff9f9f 10q,#ffc3c3 11q,#fdfdff 12q,#aaf 13q,#7b7bff 14q,#6060ff 15q,#44f 17q,#33f 22q,#5f5fff 54q,#8484ff 66q,#a2a2ff 72q,#c6c6ff 77q,#dadaff 81q,#fefeff 90q,#fffcfc 91q,#ffd5d5 101q,#ffc9c9 106q,#ffc4c4 112q,#ffe6e6 154q,#fff1f1 183q,#fff7f7 219q,#fffbfb 263q"></i><i style="--g:#fff 0,#ffa2a2 4q,#ff8e8e 6q,#ff8686 8q,#ff8d8d 10q,#ff9d9d 11q,#ffcece 12q,#e4e4ff 13q,#9393ff 14q,#6f6fff 15q,#4141ff 18q,#3636ff 22q,#66f 60q,#a2a2ff 78q,#fdfdff 98q,#fffdfd 99q,#ffe4e4 106q,#ffdbdb 111q,#ffd7d7 117q,#ffecec 158q,#fff4f4 186q,#fff9f9 221q,#fffbfb 263q"></i><i style="--g:#fff 0,#ffb4b4 3q,#ffa0a0 4q,#ff8b8b 6q,#ff8080 9q,#ff8c8c 11q,#ffa2a2 12q,#ffe2e2 13q,#c6c6ff 14q,#8686ff 15q,#6969ff 16q,#4c4cff 18q,#3c3cff 23q,#6161ff 61q,#a6a6ff 86q,#f0f0ff 102q,#fff 106q,#fff6f6 109q,#fee 113q,#ffe9e9 118q,#ffe7e7 124q,#fff3f3 164q,#fff7f7 190q,#fffcfc 263q"></i><i style="--g:#fff 0,#ffb5b5 3q,#ffa0a0 4q,#ff9494 5q,#ff7f7f 8q,#ff8282 11q,#ff8f8f 12q,#ffafaf 13q,#fff6f6 14q,#b3b3ff 15q,#8282ff 16q,#6a6aff 17q,#5252ff 19q,#44f 24q,#6161ff 62q,#a5a5ff 92q,#ddf 104q,#f0f0ff 109q,#fff 115q,#fff7f7 122q,#fff3f3 133q,#fffafa 198q,#fffdfd 263q"></i><i style="--g:#fff 0,#ffa4a4 4q,#ff8585 7q,#ff7a7a 10q,#ff8383 12q,#ff9292 13q,#ffb9b9 14q,#fffdfd 15q,#b6b6ff 16q,#88f 17q,#7474ff 18q,#5f5fff 20q,#55f 25q,#6262ff 63q,#9d9dff 94q,#e1e1ff 111q,#f1f1ff 117q,#f8f8ff 122q,#fff 129q,#fffcfc 140q,#fffbfb 153q,#fffefe 263q"></i><i style="--g:#fff 0,#ffadad 4q,#ff9393 6q,#ff7e7e 9q,#ff7c7c 12q,#ff9292 14q,#ffb3b3 15q,#ffeded 16q,#d6d6ff 17q,#a1a1ff 18q,#8a8aff 19q,#7575ff 21q,#6868ff 25q,#6262ff 56q,#6c6cff 69q,#9d9dff 98q,#d0d0ff 111q,#e1e1ff 117q,#f1f1ff 127q,#f8f8ff 137q,#fcfcff 148q,#fff 164q,#fff 263q"></i><i style="--g:#fff 0,#ffa7a7 5q,#ff9292 7q,#ff7e7e 10q,#ff7979 12q,#ff8080 14q,#ff9d9d 16q,#ffeded 18q,#eaeaff 19q,#c9c9ff 20q,#adadff 21q,#9d9dff 22q,#8f8fff 24q,#8484ff 28q,#6b6bff 60q,#7272ff 71q,#9b9bff 100q,#cbcbff 114q,#dbdbff 120q,#ebebff 131q,#f4f4ff 143q,#f8f8ff 156q,#fdfdff 191q,#fff 263q"></i><i style="--g:#fff 0,#ffd8d8 3q,#faa 6q,#ff8484 10q,#f77 14q,#ff8686 17q,#ffa2a2 19q,#ffd4d4 21q,#ffeaea 22q,#fffcfc 23q,#f3f3ff 24q,#dbdbff 26q,#bdbdff 30q,#a8a8ff 34q,#9c9cff 38q,#7d7dff 53q,#7474ff 64q,#9c9cff 102q,#c9c9ff 117q,#d7d7ff 123q,#e8e8ff 135q,#f1f1ff 148q,#f6f6ff 162q,#fbfbff 201q,#fefeff 263q"></i><i style="--g:#fff 0,#ffe5e5 3q,#ffcfcf 5q,#ff9797 9q,#ff7575 13q,#ff6d6d 16q,#ff7e7e 20q,#ff9e9e 24q,#fcc 28q,#ffdfdf 30q,#fffcfc 34q,#fbfbff 35q,#a4a4ff 49q,#88f 58q,#7f7fff 68q,#9c9cff 103q,#d4d4ff 125q,#e6e6ff 139q,#eef 152q,#f4f4ff 167q,#fafaff 206q,#fdfdff 263q"></i><i style="--g:#fff 0,#fff7f7 2q,#ffeded 4q,#ffdcdc 6q,#ffcfcf 7q,#ff8d8d 11q,#ff6d6d 14q,#ff6060 17q,#ff6d6d 22q,#ffa8a8 34q,#fff 46q,#a6a6ff 58q,#9494ff 64q,#8d8dff 72q,#a1a1ff 105q,#c6c6ff 120q,#d5d5ff 128q,#e6e6ff 143q,#eeeeff 156q,#f3f3ff 171q,#f9f9ff 210q,#fcfcff 263q"></i><i style="--g:#fff 0,#fefeff 2q,#fff 4q,#fffbfb 5q,#fff5f5 6q,#ffeded 7q,#ffe0e0 8q,#ffcdcd 9q,#ff9b9b 11q,#ff7a7a 13q,#ff5c5c 16q,#f55 19q,#ffa7a7 43q,#fffdfd 54q,#f9f9ff 55q,#bebeff 63q,#a6a6ff 68q,#9d9dff 77q,#a4a4ff 105q,#d6d6ff 130q,#e6e6ff 146q,#f2f2ff 174q,#f9f9ff 212q,#fcfcff 263q"></i><i style="--g:#fff 0,#f2f2ff 3q,#eef 5q,#f0f0ff 6q,#f5f5ff 7q,#fff 8q,#ffefef 9q,#ffd7d7 10q,#ff9696 12q,#ff6363 15q,#f55 17q,#ff4e4e 20q,#f88 43q,#ffa3a3 50q,#fffdfd 61q,#f9f9ff 62q,#e5e5ff 65q,#ccf 70q,#bbf 77q,#aaf 98q,#b2b2ff 108q,#d9d9ff 132q,#e4e4ff 144q,#ededff 159q,#f2f2ff 175q,#f9f9ff 213q,#fcfcff 263q"></i><i style="--g:#fff 0,#e7e7ff 3q,#dcdcff 5q,#d9d9ff 6q,#dbdbff 7q,#e2e2ff 8q,#efefff 9q,#fff9f9 10q,#ffd8d8 11q,#faa 12q,#ff8b8b 13q,#ff5b5b 16q,#ff4a4a 20q,#ff8282 47q,#ffa3a3 56q,#ffeaea 65q,#fffdfd 68q,#fbfbff 69q,#ededff 72q,#e0e0ff 76q,#c4c4ff 93q,#bbf 103q,#c0c0ff 111q,#ddf 135q,#e7e7ff 147q,#f3f3ff 177q,#f9f9ff 214q,#fcfcff 263q"></i><i style="--g:#fff 0,#ddf 3q,#ccf 5q,#c4c4ff 7q,#c8c8ff 8q,#d2d2ff 9q,#e5e5ff 10q,#fffafa 11q,#ffcdcd 12q,#ff9b9b 13q,#ff7f7f 14q,#ff5e5e 16q,#ff4848 21q,#ff7f7f 51q,#ffa1a1 61q,#ffd4d4 68q,#ffeaea 72q,#fff 77q,#f2f2ff 82q,#dadaff 94q,#cfcfff 101q,#cbcbff 107q,#eaeaff 150q,#f4f4ff 179q,#f9f9ff 216q,#fcfcff 263q"></i><i style="--g:#fff 0,#cacaff 4q,#b7b7ff 6q,#b2b2ff 8q,#b8b8ff 9q,#c8c8ff 10q,#e4e4ff 11q,#fff0f0 12q,#ffb9b9 13q,#ff8d8d 14q,#ff7474 15q,#ff5959 17q,#ff4949 21q,#f77 52q,#ff9696 63q,#ffd2d2 74q,#ffe5e5 79q,#fffefe 88q,#fefeff 89q,#e4e4ff 100q,#dcdcff 106q,#d9d9ff 112q,#eef 153q,#f5f5ff 181q,#fafaff 217q,#fcfcff 263q"></i><i style="--g:#fff 0,#d2d2ff 3q,#b7b7ff 5q,#a5a5ff 7q,#a4a4ff 9q,#b0b0ff 10q,#c7c7ff 11q,#ececff 12q,#ffdede 13q,#ffa1a1 14q,#ff8181 15q,#ff6060 17q,#ff4d4d 22q,#f77 54q,#ff8f8f 65q,#ffd7d7 83q,#fffefe 97q,#fefeff 98q,#ededff 106q,#e8e8ff 111q,#e5e5ff 117q,#f3f3ff 158q,#f8f8ff 185q,#fdfdff 263q"></i><i style="--g:#fff 0,#c0c0ff 4q,#a6a6ff 6q,#9c9cff 8q,#a0a0ff 10q,#afafff 11q,#ceceff 12q,#fbfbff 13q,#ff9595 15q,#ff7b7b 16q,#ff6161 18q,#ff5353 23q,#f77 56q,#ff8e8e 68q,#ffc7c7 85q,#fff2f2 100q,#fffefe 105q,#fff 106q,#fbfbff 108q,#f4f4ff 113q,#f0f0ff 124q,#fafaff 190q,#fdfdff 263q"></i><i style="--g:#fff 0,#b2b2ff 5q,#a5a5ff 6q,#9797ff 9q,#a0a0ff 11q,#b4b4ff 12q,#d9d9ff 13q,#fff4f4 14q,#ffbaba 15q,#ff9090 16q,#ff6e6e 18q,#ff5c5c 23q,#f77 57q,#ff8f8f 71q,#fff2f2 107q,#fff 115q,#fafaff 122q,#f7f7ff 134q,#fcfcff 199q,#fefeff 263q"></i><i style="--g:#fff 0,#a7a7ff 6q,#99f 8q,#9595ff 10q,#a2a2ff 12q,#bbf 13q,#e2e2ff 14q,#ffeded 15q,#ffb9b9 16q,#ff9595 17q,#ff8383 18q,#ff7171 20q,#ff6868 25q,#ff7979 58q,#ff8a8a 70q,#ffa5a5 84q,#ffe7e7 108q,#fff2f2 114q,#fff9f9 120q,#fff 128q,#fcfcff 155q,#fff 263q"></i><i style="--g:#fff 0,#aeaeff 6q,#a3a3ff 7q,#9595ff 10q,#99f 12q,#a3a3ff 13q,#bebeff 14q,#e1e1ff 15q,#fff4f4 16q,#ffa6a6 18q,#ff9595 19q,#ff8383 21q,#ff7a7a 27q,#ff8080 62q,#ffa4a4 86q,#ffdbdb 108q,#ffe9e9 115q,#fff6f6 127q,#fffbfb 138q,#fff 156q,#fff 263q"></i><i style="--g:#fff 0,#acacff 7q,#9797ff 10q,#9595ff 12q,#a1a1ff 14q,#b5b5ff 15q,#f0f0ff 17q,#fff0f0 18q,#ffc0c0 20q,#ffa3a3 22q,#ff9292 28q,#ff8585 58q,#ff8b8b 69q,#ffa6a6 89q,#ffe1e1 115q,#ffefef 126q,#fff6f6 137q,#fffafa 150q,#fff 207q,#fff 263q"></i><i style="--g:#fff 0,#e4e4ff 3q,#a3a3ff 9q,#9393ff 13q,#a2a2ff 16q,#f0f0ff 20q,#fff 21q,#fff1f1 22q,#ffe6e6 23q,#ffd5d5 25q,#ffcaca 27q,#ffbcbc 31q,#ffa5a5 41q,#ff8f8f 63q,#ffa5a5 88q,#ffdfdf 118q,#ffecec 129q,#fff3f3 141q,#fff8f8 155q,#fffcfc 190q,#fff 263q"></i><i style="--g:#fff 0,#e5e5ff 4q,#cacaff 7q,#a5a5ff 10q,#9090ff 13q,#8c8cff 15q,#9d9dff 19q,#d8d8ff 24q,#f0f0ff 27q,#fbfbff 29q,#fffefe 30q,#ffeded 34q,#ffadad 53q,#ffa1a1 58q,#f99 67q,#ffb3b3 95q,#ffdede 120q,#ffebeb 132q,#fff2f2 145q,#fff6f6 159q,#fffcfc 199q,#fffefe 263q"></i><i style="--g:#fff 0,#f4f4ff 3q,#ebebff 5q,#d2d2ff 8q,#99f 12q,#88f 14q,#8080ff 17q,#a2a2ff 25q,#ccf 31q,#e0e0ff 35q,#fefeff 42q,#fffcfc 43q,#ffc4c4 57q,#ffb0b0 64q,#faa 72q,#fbb 99q,#ffdfdf 123q,#ffebeb 136q,#fff6f6 163q,#fffbfb 203q,#fffdfd 263q"></i><i style="--g:#fff 0,#fdfdff 3q,#f8f8ff 5q,#eef 7q,#dadaff 9q,#9494ff 13q,#8080ff 15q,#7575ff 18q,#7c7cff 22q,#a6a6ff 33q,#d3d3ff 42q,#fff 52q,#fff1f1 55q,#ffd5d5 62q,#ffc4c4 69q,#ffbebe 78q,#ffc4c4 101q,#ffe3e3 127q,#ffeded 141q,#fff6f6 168q,#fffbfb 207q,#fffdfd 263q"></i><i style="--g:#fff 0,#fff9f9 4q,#fffbfb 6q,#fff 7q,#f9f9ff 8q,#eef 9q,#dfdfff 10q,#99f 13q,#77f 16q,#6c6cff 19q,#a4a4ff 40q,#fdfdff 59q,#fffdfd 60q,#ffeaea 65q,#ffdada 71q,#ffd1d1 79q,#fcc 97q,#ffd0d0 107q,#ffe5e5 129q,#ffeded 142q,#fff6f6 170q,#fffbfb 209q,#fffdfd 263q"></i><i style="--g:#fff 0,#fff2f2 3q,#ffeded 5q,#fee 7q,#fff3f3 8q,#fffcfc 9q,#f4f4ff 10q,#dfdfff 11q,#a3a3ff 13q,#77f 16q,#66f 20q,#a6a6ff 47q,#f0f0ff 63q,#fff 67q,#fff3f3 71q,#ffe9e9 76q,#fdd 88q,#ffd6d6 102q,#ffefef 145q,#fff7f7 173q,#fffbfb 211q,#fffdfd 263q"></i><i style="--g:#fff 0,#ffecec 3q,#ffe0e0 6q,#ffe3e3 8q,#ffeaea 9q,#fff6f6 10q,#f4f4ff 11q,#d9d9ff 12q,#9797ff 14q,#6f6fff 17q,#66f 21q,#a4a4ff 52q,#dedeff 65q,#f0f0ff 70q,#fff 76q,#fff8f8 80q,#ffeded 88q,#ffe3e3 98q,#ffdfdf 107q,#fff2f2 148q,#fff8f8 176q,#fffbfb 213q,#fffdfd 263q"></i><i style="--g:#fff 0,#ffe1e1 4q,#ffd4d4 7q,#ffdada 9q,#ffe4e4 10q,#fff6f6 11q,#eef 12q,#ccf 13q,#a3a3ff 14q,#8d8dff 15q,#7373ff 17q,#66f 21q,#a5a5ff 57q,#dbdbff 70q,#ececff 76q,#f8f8ff 82q,#fff 87q,#ffefef 99q,#ffeaea 105q,#ffe8e8 112q,#fff4f4 152q,#fff9f9 179q,#fffdfd 263q"></i><i style="--g:#fff 0,#fdd 4q,#ffcfcf 6q,#ffcaca 8q,#ffd5d5 10q,#ffe4e4 11q,#fffcfc 12q,#e2e2ff 13q,#99f 15q,#8686ff 16q,#7171ff 18q,#6868ff 22q,#a3a3ff 60q,#d2d2ff 73q,#e4e4ff 80q,#fff 96q,#fff 97q,#fffbfb 99q,#fff4f4 106q,#fff0f0 118q,#fffafa 183q,#fffefe 263q"></i><i style="--g:#fff 0,#ffdada 4q,#ffcbcb 6q,#ffc3c3 8q,#ffc9c9 10q,#ffd5d5 11q,#ffe9e9 12q,#f8f8ff 13q,#ababff 15q,#9292ff 16q,#8383ff 17q,#7474ff 19q,#6d6dff 22q,#a0a0ff 62q,#ccf 76q,#e0e0ff 85q,#f7f7ff 99q,#fff 105q,#fff8f8 113q,#fff6f6 125q,#fffcfc 189q,#fffefe 263q"></i><i style="--g:#fff 0,#ffdada 4q,#ffbfbf 8q,#ffc0c0 10q,#ffc9c9 11q,#ffd9d9 12q,#fff1f1 13q,#eef 14q,#a4a4ff 16q,#9292ff 17q,#7e7eff 19q,#77f 23q,#9f9fff 63q,#d1d1ff 83q,#eef 100q,#f8f8ff 107q,#fff 114q,#fffbfb 124q,#fffafa 136q,#fff 263q"></i><i style="--g:#fff 0,#ffd3d3 5q,#ffc4c4 7q,#fbb 9q,#ffc0c0 11q,#fcc 12q,#ffdede 13q,#fff7f7 14q,#e8e8ff 15q,#a9a9ff 17q,#8e8eff 19q,#8181ff 24q,#a2a2ff 66q,#d1d1ff 87q,#ececff 104q,#f5f5ff 111q,#fff 126q,#fffdfd 155q,#fff 263q"></i><i style="--g:#fff 0,#ffcece 6q,#ffc0c0 8q,#ffbaba 10q,#ffc2c2 12q,#ffcece 13q,#ffe1e1 14q,#fff9f9 15q,#ebebff 16q,#d1d1ff 17q,#a7a7ff 19q,#9595ff 22q,#9191ff 26q,#a5a5ff 67q,#c7c7ff 84q,#e9e9ff 107q,#f7f7ff 121q,#fbfbff 131q,#fff 148q,#fff 263q"></i><i style="--g:#fff 0,#fcc 7q,#ffc0c0 9q,#ffbaba 11q,#ffc2c2 13q,#ffcece 14q,#fff1f1 16q,#f9f9ff 17q,#d6d6ff 19q,#bfbfff 21q,#b2b2ff 23q,#a8a8ff 28q,#a3a3ff 55q,#aaf 66q,#e7e7ff 109q,#f2f2ff 120q,#f8f8ff 131q,#fbfbff 144q,#fff 183q,#fff 263q"></i><i style="--g:#fff 0,#ffe8e8 4q,#ffc7c7 9q,#ffb9b9 12q,#ffbebe 14q,#ffc6c6 15q,#fffbfb 19q,#f8f8ff 20q,#e6e6ff 22q,#d7d7ff 25q,#ccf 31q,#b1b1ff 61q,#b6b6ff 70q,#e8e8ff 113q,#f0f0ff 123q,#f6f6ff 135q,#fafaff 148q,#fff 216q,#fff 263q"></i><i style="--g:#fff 0,#fee 4q,#fdd 7q,#fbb 12q,#ffb3b3 14q,#ffbfbf 17q,#ffebeb 22q,#fff7f7 24q,#fffcfc 25q,#fefeff 26q,#f4f4ff 29q,#e9e9ff 34q,#c9c9ff 54q,#bfbfff 66q,#d3d3ff 95q,#e9e9ff 117q,#f1f1ff 128q,#f9f9ff 153q,#fdfdff 189q,#fff 263q"></i><i style="--g:#fff 0,#fff7f7 3q,#ffeded 6q,#ffe1e1 8q,#ffacac 14q,#ffa4a4 16q,#ffadad 19q,#ffdada 26q,#ffeaea 30q,#fff 38q,#dbdbff 56q,#d1d1ff 63q,#ccf 71q,#d8d8ff 98q,#ebebff 121q,#f2f2ff 132q,#f9f9ff 157q,#fcfcff 191q,#fff 263q"></i><i style="--g:#fff 0,#fffcfc 3q,#fff6f6 6q,#ffeded 8q,#fdd 10q,#faa 14q,#ff9b9b 16q,#f99 18q,#ffa2a2 22q,#ffcbcb 30q,#ffdfdf 36q,#fff 49q,#e4e4ff 62q,#dbdbff 69q,#d9d9ff 77q,#ddf 100q,#eef 125q,#f3f3ff 138q,#f9f9ff 163q,#fcfcff 203q,#fefeff 263q"></i><i style="--g:#fff 0,#fdfdff 3q,#fff 6q,#fff8f8 8q,#fff1f1 9q,#fdd 11q,#ff9e9e 15q,#ff8e8e 19q,#ffa0a0 26q,#ffc4c4 35q,#ffdbdb 43q,#fffefe 57q,#fff 58q,#f5f5ff 62q,#e9e9ff 70q,#e4e4ff 78q,#e1e1ff 94q,#e4e4ff 106q,#f4f4ff 140q,#f9f9ff 166q,#fcfcff 205q,#fefeff 263q"></i><i style="--g:#fff 0,#f7f7ff 5q,#f9f9ff 7q,#fffdfd 9q,#fff4f4 10q,#ffe9e9 11q,#ffd9d9 12q,#ff9f9f 15q,#ff8f8f 17q,#f88 20q,#ffe7e7 55q,#fff 65q,#fff 66q,#f8f8ff 70q,#f0f0ff 77q,#e8e8ff 101q,#f5f5ff 143q,#fafaff 170q,#fefeff 263q"></i><i style="--g:#fff 0,#f6f6ff 3q,#f0f0ff 6q,#f2f2ff 8q,#f7f7ff 9q,#fff 10q,#fff4f4 11q,#ffe5e5 12q,#ffa3a3 15q,#ff8f8f 17q,#ff8686 20q,#ffa3a3 35q,#fff2f2 66q,#fff 74q,#f4f4ff 87q,#ededff 106q,#f7f7ff 147q,#fafaff 173q,#fefeff 263q"></i><i style="--g:#fff 0,#efefff 4q,#e9e9ff 7q,#ededff 9q,#f4f4ff 10q,#fff 11q,#fff1f1 12q,#fdd 13q,#ffadad 15q,#ff9292 17q,#ff8585 21q,#ffa4a4 38q,#ffe3e3 65q,#fff0f0 72q,#fff 84q,#fff 86q,#f5f5ff 100q,#f2f2ff 112q,#fbfbff 173q,#fff 263q"></i><i style="--g:#fff 0,#ececff 4q,#e6e6ff 6q,#e3e3ff 8q,#ebebff 10q,#f4f4ff 11q,#fffcfc 12q,#ffeaea 13q,#ffa3a3 16q,#ff9090 18q,#f88 21q,#ffa5a5 40q,#ffe1e1 69q,#fee 77q,#fff 94q,#fff 96q,#f8f8ff 106q,#f6f6ff 118q,#fcfcff 177q,#fff 263q"></i><i style="--g:#fff 0,#ebebff 4q,#e3e3ff 6q,#dfdfff 8q,#e3e3ff 10q,#ebebff 11q,#f7f7ff 12q,#fff6f6 13q,#ffa0a0 17q,#ff9292 19q,#ff8c8c 22q,#ffa5a5 40q,#ffe0e0 73q,#ffebeb 81q,#fff 103q,#fff 106q,#fbfbff 114q,#fafaff 125q,#fff 234q,#fff 263q"></i><i style="--g:#fff 0,#eaeaff 4q,#dcdcff 8q,#dedeff 10q,#e4e4ff 11q,#eef 12q,#fcfcff 13q,#fff0f0 14q,#ffb1b1 17q,#ff9b9b 19q,#ff9494 23q,#ffe9e9 85q,#fff7f7 101q,#fff 112q,#fcfcff 136q,#fff 210q,#fff 263q"></i><i style="--g:#fff 0,#e6e6ff 5q,#dadaff 9q,#dedeff 11q,#e6e6ff 12q,#fffefe 14q,#ffb8b8 18q,#ffa4a4 20q,#ff9f9f 23q,#ffc3c3 59q,#ffe3e3 83q,#fff4f4 103q,#fffbfb 113q,#fff 124q,#fff 263q"></i><i style="--g:#fff 0,#e4e4ff 6q,#d9d9ff 10q,#e0e0ff 12q,#e8e8ff 13q,#f3f3ff 14q,#fffcfc 15q,#fdd 17q,#ffc5c5 19q,#ffb8b8 21q,#ffb1b1 25q,#ffc7c7 60q,#ffe4e4 87q,#fff7f7 113q,#fffbfb 123q,#fff 140q,#fff 263q"></i><i style="--g:#fff 0,#e3e3ff 7q,#dadaff 11q,#e1e1ff 13q,#e8e8ff 14q,#fff 16q,#ffe9e9 18q,#ffd8d8 20q,#fcc 23q,#ffc8c8 28q,#ffcece 62q,#fff6f6 115q,#fffcfc 139q,#fff 163q,#fff 263q"></i><i style="--g:#fff 0,#dfdfff 9q,#dadaff 12q,#dfdfff 14q,#e5e5ff 15q,#fefeff 18q,#ffeded 21q,#ffe1e1 25q,#fdd 31q,#ffd4d4 59q,#ffd8d8 70q,#fff6f6 120q,#fffcfc 143q,#fff 186q,#fff 263q"></i><i style="--g:#fff 0,#f2f2ff 5q,#ddf 11q,#d8d8ff 14q,#ddf 16q,#f8f8ff 21q,#fff 23q,#fff7f7 26q,#fff0f0 31q,#ffe1e1 52q,#ffdcdc 65q,#fff6f6 125q,#fffbfb 148q,#fff 203q,#fff 263q"></i><i style="--g:#fff 0,#f4f4ff 6q,#e9e9ff 9q,#d7d7ff 13q,#d1d1ff 16q,#f2f2ff 26q,#fff 33q,#ffeaea 55q,#ffe3e3 70q,#ffeaea 96q,#fff7f7 130q,#fffbfb 153q,#fff 216q,#fff 263q"></i><i style="--g:#fff 0,#fcfcff 4q,#f6f6ff 7q,#efefff 9q,#ccf 15q,#c6c6ff 17q,#c8c8ff 19q,#e2e2ff 27q,#ececff 32q,#fff 45q,#ffefef 62q,#ffeaea 77q,#ffeded 99q,#fff8f8 136q,#fffbfb 158q,#fff 224q,#fff 263q"></i><i style="--g:#fff 0,#fff 5q,#fcfcff 7q,#f1f1ff 10q,#c3c3ff 16q,#bbf 19q,#dadaff 30q,#e7e7ff 37q,#fff 55q,#fff2f2 70q,#ffefef 92q,#fff9f9 138q,#fffcfc 162q,#fff 228q,#fff 263q"></i><i style="--g:#fff 0,#fffcfc 5q,#fff 8q,#f7f7ff 10q,#e9e9ff 12q,#c0c0ff 16q,#b3b3ff 19q,#d3d3ff 32q,#e1e1ff 40q,#fff 63q,#fff6f6 77q,#fff2f2 100q,#fffcfc 165q,#fff 228q,#fff 263q"></i><i style="--g:#fff 0,#fff8f8 6q,#fffafa 8q,#fdfdff 10q,#efefff 12q,#c1c1ff 16q,#b2b2ff 18q,#adadff 20q,#d1d1ff 35q,#e1e1ff 46q,#f6f6ff 63q,#fff 72q,#fff9f9 87q,#fff5f5 106q,#fffcfc 168q,#fff 225q,#fff 263q"></i><i style="--g:#fff 0,#fff7f7 4q,#fff5f5 7q,#fff7f7 9q,#fdfdff 11q,#f5f5ff 12q,#bbf 17q,#afafff 19q,#acacff 21q,#d4d4ff 40q,#f0f0ff 63q,#f8f8ff 72q,#fff 82q,#fffafa 99q,#fff8f8 112q,#fff 219q,#fff 263q"></i><i style="--g:#fff 0,#fff6f6 4q,#fff2f2 7q,#fff3f3 9q,#fffbfb 11q,#fbfbff 12q,#f1f1ff 13q,#c0c0ff 17q,#b3b3ff 19q,#afafff 21q,#d2d2ff 41q,#f1f1ff 70q,#fff 92q,#fffafa 118q,#fff 208q,#fff 263q"></i><i style="--g:#fff 0,#fff3f3 5q,#ffefef 8q,#fff2f2 10q,#fffdfd 12q,#f8f8ff 13q,#c9c9ff 17q,#babaff 19q,#b4b4ff 22q,#d1d1ff 41q,#f0f0ff 74q,#fff 101q,#fffcfc 126q,#fff 193q,#fff 263q"></i><i style="--g:#fff 0,#fff2f2 5q,#fee 8q,#ffefef 10q,#fff2f2 11q,#fff 13q,#d2d2ff 17q,#c4c4ff 19q,#bdbdff 22q,#d3d3ff 41q,#f1f1ff 79q,#fff 110q,#fffefe 137q,#fff 169q,#fff 263q"></i><i style="--g:#fff 0,#fff2f2 5q,#ffeded 8q,#ffefef 11q,#fffafa 13q,#fbfbff 14q,#d6d6ff 18q,#ccf 20q,#c7c7ff 23q,#d6d6ff 40q,#f2f2ff 85q,#fff 120q,#fff 263q"></i><i style="--g:#fff 0,#fff1f1 6q,#ffecec 9q,#fff0f0 12q,#fffcfc 14q,#fafaff 15q,#e9e9ff 17q,#ddf 19q,#d6d6ff 21q,#d3d3ff 24q,#f9f9ff 105q,#fff 132q,#fff 263q"></i><i style="--g:#fff 0,#fff0f0 7q,#ffecec 10q,#fff1f1 13q,#fffcfc 15q,#fcfcff 16q,#efefff 18q,#e6e6ff 20q,#e1e1ff 22q,#dfdfff 26q,#e6e6ff 62q,#fafaff 116q,#fff 146q,#fff 263q"></i><i style="--g:#fff 0,#ffeded 11q,#fff1f1 14q,#fffefe 17q,#f4f4ff 20q,#ececff 24q,#e9e9ff 56q,#fbfbff 121q,#fff 160q,#fff 263q"></i><i style="--g:#fff 0,#ffecec 13q,#fff1f1 16q,#fffdfd 20q,#fff 21q,#f9f9ff 24q,#f5f5ff 29q,#ededff 63q,#fbfbff 127q,#fff 172q,#fff 263q"></i><i style="--g:#fff 0,#fff 1q,#fff8f8 6q,#ffeaea 15q,#ffebeb 17q,#fff9f9 24q,#fff 29q,#f5f5ff 51q,#f1f1ff 69q,#fbfbff 133q,#fff 180q,#fff 263q"></i><i style="--g:#fff 0,#fff 2q,#fffafa 7q,#fff4f4 10q,#ffe6e6 15q,#ffe5e5 17q,#fff6f6 29q,#fff 41q,#fff 44q,#f6f6ff 61q,#f4f4ff 76q,#fcfcff 138q,#fff 186q,#fff 263q"></i><i style="--g:#fff 0,#fff 5q,#fffbfb 8q,#fff4f4 11q,#ffe5e5 15q,#ffdfdf 18q,#fff3f3 34q,#fff 51q,#fff 54q,#f8f8ff 69q,#f7f7ff 89q,#fff 188q,#fff 263q"></i><i style="--g:#fff 0,#fff 8q,#fff7f7 11q,#ffe0e0 16q,#ffdada 19q,#fff0f0 37q,#fff 60q,#fff 64q,#fafaff 76q,#f9f9ff 98q,#fff 187q,#fff 263q"></i><i style="--g:#fff 0,#fcfcff 6q,#fff 9q,#fffafa 11q,#ffdcdc 17q,#ffd7d7 20q,#ffe8e8 33q,#fee 41q,#fff 69q,#fafaff 105q,#fff 184q,#fff 263q"></i><i style="--g:#fff 0,#fbfbff 7q,#fcfcff 9q,#fff 10q,#fffdfd 11q,#fff9f9 12q,#fdd 17q,#ffd6d6 20q,#ffe7e7 35q,#ffefef 46q,#fff 78q,#fcfcff 111q,#fff 178q,#fff 263q"></i><i style="--g:#fff 0,#f9f9ff 7q,#fafaff 9q,#fff 11q,#fffcfc 12q,#ffdfdf 17q,#ffd9d9 19q,#ffd7d7 21q,#ffe8e8 39q,#fff4f4 59q,#fff 88q,#fdfdff 118q,#fff 168q,#fff 263q"></i><i style="--g:#fff 0,#f9f9ff 5q,#f8f8ff 8q,#f9f9ff 10q,#fff 12q,#ffe3e3 17q,#ffdcdc 19q,#ffdada 21q,#ffe9e9 41q,#fff6f6 67q,#fff 97q,#fefeff 126q,#fff 153q,#fff 263q"></i><i style="--g:#fff 0,#f7f7ff 8q,#f8f8ff 10q,#fdfdff 12q,#fffdfd 13q,#ffe8e8 17q,#ffe0e0 19q,#fdd 22q,#ffeaea 41q,#fff6f6 72q,#fff 105q,#fff 263q"></i><i style="--g:#fff 0,#f8f8ff 6q,#f6f6ff 9q,#f8f8ff 11q,#fefeff 13q,#fffcfc 14q,#ffe9e9 18q,#ffe4e4 20q,#ffe2e2 23q,#ffebeb 40q,#fff7f7 77q,#fff 113q,#fff 263q"></i><i style="--g:#fff 0,#f6f6ff 9q,#f9f9ff 12q,#fff 14q,#ffecec 19q,#ffe8e8 24q,#fff8f8 84q,#fff 122q,#fff 263q"></i><i style="--g:#fff 0,#f6f6ff 10q,#f9f9ff 13q,#fff 15q,#fff3f3 19q,#ffefef 22q,#fee 25q,#fff 130q,#fff 263q"></i><i style="--g:#fff 0,#f6f6ff 11q,#f8f8ff 13q,#fefeff 16q,#fffefe 17q,#fff6f6 21q,#fff4f4 29q,#fff5f5 64q,#fff 139q,#fff 263q"></i><i style="--g:#fff 0,#f6f6ff 12q,#f8f8ff 15q,#fff 19q,#fffcfc 22q,#fff9f9 27q,#fff6f6 60q,#fff 145q,#fff 263q"></i><i style="--g:#fff 0,#fff 2q,#f6f6ff 14q,#f7f7ff 17q,#fff 24q,#fffbfb 42q,#fff8f8 67q,#fff 150q,#fff 263q"></i><i style="--g:#fff 0,#fff 3q,#f4f4ff 16q,#fff 35q,#fffafa 75q,#fff 153q,#fff 263q"></i><i style="--g:#fff 0,#fff 5q,#fcfcff 9q,#f3f3ff 15q,#f1f1ff 18q,#f9f9ff 31q,#fff 46q,#fffbfb 85q,#fff 153q,#fff 263q"></i></div>
<div class="o" style="left:103px;top:57px;height:248px;mix-blend-mode:color-burn;background:linear-gradient(to top,rgb(255,255,255) 0px,rgb(255,255,255) 70px,rgb(250,250,250) 90px,rgb(242,242,242) 110px,rgb(232,232,232) 130px,rgb(223,223,223) 150px,rgb(218,218,218) 175px,rgb(213,213,213) 200px,rgb(209,209,209) 225px,rgb(205,205,205) 250px)"></div><div class="o" style="left:103px;top:305px;height:241px;background:linear-gradient(rgba(255,255,255,0.000) 0px,rgba(255,255,255,0.000) 70px,rgba(255,255,255,0.019) 90px,rgba(255,255,255,0.053) 110px,rgba(255,255,255,0.097) 130px,rgba(255,255,255,0.146) 150px,rgba(255,255,255,0.170) 175px,rgba(255,255,255,0.195) 200px,rgba(255,255,255,0.219) 225px,rgba(255,255,255,0.243) 250px)"></div><div class="o" style="left:606px;top:57px;height:248px;mix-blend-mode:color-burn;background:linear-gradient(to top,rgb(255,255,255) 0px,rgb(255,255,255) 70px,rgb(250,250,250) 90px,rgb(242,242,242) 110px,rgb(232,232,232) 130px,rgb(223,223,223) 150px,rgb(218,218,218) 175px,rgb(213,213,213) 200px,rgb(209,209,209) 225px,rgb(205,205,205) 250px)"></div><div class="o" style="left:606px;top:305px;height:241px;background:linear-gradient(rgba(255,255,255,0.000) 0px,rgba(255,255,255,0.000) 70px,rgba(255,255,255,0.019) 90px,rgba(255,255,255,0.053) 110px,rgba(255,255,255,0.097) 130px,rgba(255,255,255,0.146) 150px,rgba(255,255,255,0.170) 175px,rgba(255,255,255,0.195) 200px,rgba(255,255,255,0.219) 225px,rgba(255,255,255,0.243) 250px)"></div><svg width="1295" height="638" viewBox="0 0 1295 638" style="position:absolute;left:0;top:0">
<g fill="none" stroke="#000" stroke-width="2.5">
<rect x="102.3" y="56.5" width="479.4" height="489.1"/>
<path d="M102.3 545.6v10.8M208.8 545.6v10.8M315.3 545.6v10.8M421.8 545.6v10.8M528.3 545.6v10.8M102.30 56.5v-10.6M125.13 56.5v-10.6M147.96 56.5v-10.6M170.79 56.5v-10.6M193.61 56.5v-10.6M216.44 56.5v-10.6M239.27 56.5v-10.6M262.10 56.5v-10.6M284.93 56.5v-10.6M307.76 56.5v-10.6M330.59 56.5v-10.6M353.41 56.5v-10.6M376.24 56.5v-10.6M399.07 56.5v-10.6M421.90 56.5v-10.6M444.73 56.5v-10.6M467.56 56.5v-10.6M490.39 56.5v-10.6M513.21 56.5v-10.6M536.04 56.5v-10.6M558.87 56.5v-10.6M581.70 56.5v-10.6M102.3 448.4h-10.8M102.3 350.2h-10.8M102.3 252.0h-10.8M102.3 153.8h-10.8"/>
<rect x="605.6" y="56.5" width="479.0" height="489.1"/>
<path d="M605.6 545.6v10.8M712.1 545.6v10.8M818.6 545.6v10.8M925.1 545.6v10.8M1031.6 545.6v10.8M605.60 56.5v-10.6M628.41 56.5v-10.6M651.22 56.5v-10.6M674.03 56.5v-10.6M696.84 56.5v-10.6M719.65 56.5v-10.6M742.46 56.5v-10.6M765.27 56.5v-10.6M788.08 56.5v-10.6M810.89 56.5v-10.6M833.70 56.5v-10.6M856.50 56.5v-10.6M879.31 56.5v-10.6M902.12 56.5v-10.6M924.93 56.5v-10.6M947.74 56.5v-10.6M970.55 56.5v-10.6M993.36 56.5v-10.6M1016.17 56.5v-10.6M1038.98 56.5v-10.6M1061.79 56.5v-10.6M1084.60 56.5v-10.6M605.6 448.4h-10.8M605.6 350.2h-10.8M605.6 252.0h-10.8M605.6 153.8h-10.8"/>
</g>
<g font-family="'DejaVu Sans','Liberation Sans',sans-serif" font-size="30.4" fill="#000">
<text x="342.0" y="23.3" text-anchor="middle">NIR Cycles</text>
<text x="342.0" y="631.1" text-anchor="middle">Time Delay (fs)</text>
<text x="101.7" y="589.7" text-anchor="middle">−30</text>
<text x="208.2" y="589.7" text-anchor="middle">−20</text>
<text x="314.7" y="589.7" text-anchor="middle">−10</text>
<text x="421.2" y="589.7" text-anchor="middle">0</text>
<text x="527.7" y="589.7" text-anchor="middle">10</text>
<text x="845.1" y="23.3" text-anchor="middle">NIR Cycles</text>
<text x="845.1" y="631.1" text-anchor="middle">Time Delay (fs)</text>
<text x="605.0" y="589.7" text-anchor="middle">−30</text>
<text x="711.5" y="589.7" text-anchor="middle">−20</text>
<text x="818.0" y="589.7" text-anchor="middle">−10</text>
<text x="924.5" y="589.7" text-anchor="middle">0</text>
<text x="1031.0" y="589.7" text-anchor="middle">10</text>
<text x="80.3" y="460.4" text-anchor="end">18</text>
<text x="80.3" y="362.2" text-anchor="end">20</text>
<text x="80.3" y="264.0" text-anchor="end">22</text>
<text x="80.3" y="165.8" text-anchor="end">24</text>
<text transform="translate(24.2,300.8) rotate(-90)" text-anchor="middle">Photon Energy (eV)</text>
<text transform="translate(1290.5,331.6) rotate(-90)" text-anchor="middle">ΔS (arb. units)</text>
<text x="114.6" y="95.8" font-weight="bold" font-size="35.3">(a)</text>
<text x="617.9" y="95.8" font-weight="bold" font-size="35.3">(b)</text>
<text x="1161.2" y="110.5">10<tspan dy="-11.5" font-size="21.3">−1</tspan></text>
<text x="1161.2" y="248">10<tspan dy="-11.5" font-size="21.3">−2</tspan></text>
<text x="1161.2" y="344">0</text>
<text x="1161.2" y="438">−10<tspan dy="-11.5" font-size="21.3">−2</tspan></text>
<text x="1161.2" y="576.5">−10<tspan dy="-11.5" font-size="21.3">−1</tspan></text>
</g>
<defs><linearGradient id="cb" gradientUnits="userSpaceOnUse" x1="0" y1="62.3" x2="0" y2="601.9"><stop offset="0" stop-color="#f00"/><stop offset="0.5" stop-color="#fff"/><stop offset="1" stop-color="#00f"/></linearGradient></defs>
<path d="M1098.7 62.3L1119.3000000000002 35.9L1139.9 62.3V601.9L1119.3000000000002 629.4L1098.7 601.9z" fill="url(#cb)" stroke="#000" stroke-width="2.5" stroke-linejoin="miter"/>
<path d="M1139.9 99.4h11M1139.9 105.7h11M1139.9 112.8h11M1139.9 120.8h11M1139.9 130.1h11M1139.9 141.0h11M1139.9 154.4h11M1139.9 171.7h11M1139.9 196.1h11M1139.9 237.7h11M1139.9 564.8h11M1139.9 558.5h11M1139.9 551.4h11M1139.9 543.4h11M1139.9 534.1h11M1139.9 523.2h11M1139.9 509.8h11M1139.9 492.5h11M1139.9 468.1h11M1139.9 426.5h11M1139.9 332.1h11" fill="none" stroke="#000" stroke-width="2.5"/>
</svg></div></body></html>
